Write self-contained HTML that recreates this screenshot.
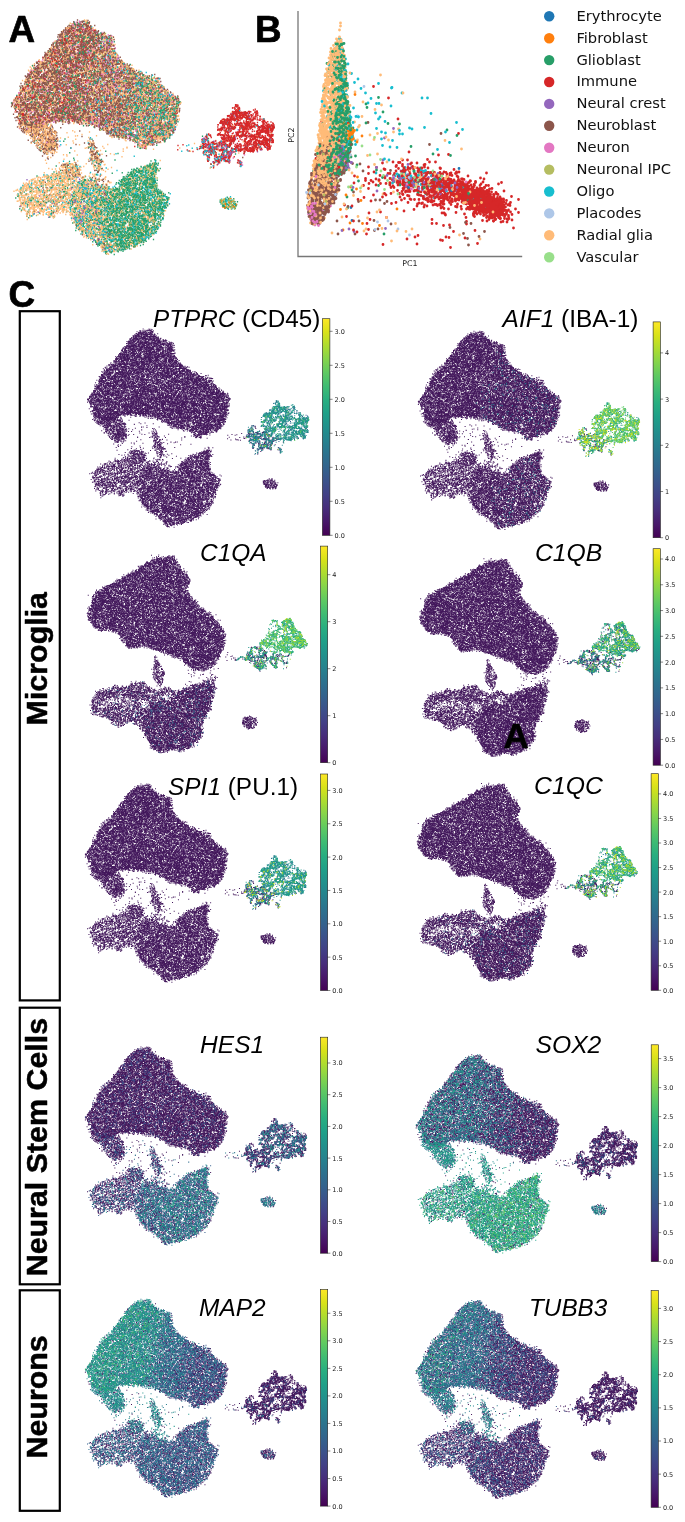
<!DOCTYPE html>
<html><head><meta charset="utf-8"><title>Figure</title>
<style>html,body{margin:0;padding:0;background:#fff}svg{display:block}</style></head>
<body>
<svg width="685" height="1522" viewBox="0 0 685 1522">
<defs>
<linearGradient id="vg" x1="0" y1="0" x2="0" y2="1"><stop offset="0" stop-color="#fde725"/><stop offset="0.0625" stop-color="#d8e219"/><stop offset="0.125" stop-color="#addc30"/><stop offset="0.1875" stop-color="#84d44b"/><stop offset="0.25" stop-color="#5ec962"/><stop offset="0.3125" stop-color="#3fbc73"/><stop offset="0.375" stop-color="#28ae80"/><stop offset="0.4375" stop-color="#1fa088"/><stop offset="0.5" stop-color="#21918c"/><stop offset="0.5625" stop-color="#26828e"/><stop offset="0.625" stop-color="#2c728e"/><stop offset="0.6875" stop-color="#33638d"/><stop offset="0.75" stop-color="#3b528b"/><stop offset="0.8125" stop-color="#424086"/><stop offset="0.875" stop-color="#472d7b"/><stop offset="0.9375" stop-color="#48186a"/><stop offset="1" stop-color="#440154"/></linearGradient>
<path id="g0_0" d="M286 107zm45 4zm-45 1zm-15 0zm-8 5zm-17 10zm2 2zm7-7zm7 9zm23-3zm12 8zm-2 3zm-11 2zm-18-2zm-3 4zm-2-6zm-6 3zm-13-3zm-9 2zm9 16zm4-6zm1-3zm4 5zm8 4zm9-3zm8-4zm11 5zm-14 11zm0-5zm-11 3zm-1-2zm-18 1zm-4 0zm-5-4zm-21 14zm17 2zm9 4zm18-3zm3 3zm1-5zm41-2zm-62 19zm-15 0zm-3-7zm-4 5zm-11-7zm-7 18zm6 3zm21 0zm4-7zm4 8zm3-2zm3-2zm9 1zm21-4zm-15 11zm-4 3zm-17 0zm-3-1zm-10-2zm-3 4zm-8-5zm-9 9zm-2-8zm-16 8zm-4 10zm4-4zm3 4zm11-2zm2 1zm1-7zm5 4zm2 4zm2-8zm2 5zm7-2zm1 2zm1 6zm2-2zm4-4zm1 2zm1-3zm2 5zm2 2zm3-8zm7-3zm7 10zm0 1zm1-2zm1-2zm2 3zm2-1zm2-4zm1 5zm6-5zm39 4zm-24 10zm-12-6zm-35 8zm0-6zm-1-3zm-1 9zm-10 2zm-5-10zm-4 5zm-4 0zm0 4zm-1-8zm-13-1zm-10 10zm-1-7zm-37 17zm13-1zm8 3zm3-3zm18-2zm9-2zm1 5zm3-4zm1 5zm4 1zm4-9zm6 0zm5 5zm12-4zm4 1zm10 1zm32 12zm-13 0zm-39 2zm-9-3zm-15-2zm-2 0zm0 9zm-2-9zm-1 4zm-19-4zm-2 5zm-17-1zm-22 3zm-2 12zm11-7zm8 8zm0-10zm7 6zm2 3zm5-5zm2-2zm0-2zm4 10zm8-10zm0 5zm2-5zm4 4zm17 1zm5 1zm3 3zm6-3zm4 0zm2 5zm19-3zm11 2zm34 6zm-4 3zm-32 0zm-19 3zm-5-6zm-14 4zm-4-7zm-4 10zm-6-5zm-4-1zm-2-2zm-18 4zm0-5zm-13 0zm0 0zm-14 2zm-1 0zm-9 3zm-2-2zm0-5zm-11 10zm-16 9zm7 0zm1 2zm5-7zm2 1zm8 3zm4-3zm9 1zm4 2zm4 4zm6-8zm11 8zm13 0zm8-2zm10-5zm3 7zm4-6zm6 2zm16-6zm2 5zm11-4zm14 19zm-22-3zm-7 6zm-1-10zm-6 8zm-4-4zm-13 5zm-5-4zm-23-3zm-2 3zm-3 3zm-3-3zm-4-3zm-7 7zm-5-10zm-5 5zm-10-2zm-2 5zm-7 2zm-1 1zm-7-3zm-3 3zm-5-8zm-1-3zm-11 18zm11-6zm3 10zm11-9zm3 9zm26-7zm2 3zm5-6zm16 7zm21 1zm1-3zm7 2zm29 8zm-1 2zm-2 2zm-3-7zm-3 0zm-1 7zm-10-3zm-2-2zm-6 1zm-1-1zm-15 9zm-5-10zm-3 3zm-10 4zm-19-1zm-2 0zm-1 4zm-11-5zm-2 2zm-4 2zm-7 1zm-7 0zm0-11zm-1 11zm-1-8zm-5 5zm-13-2zm7 9zm1-2zm1 4zm10 6zm3-9zm5 6zm11-6zm4 1zm1-1zm1 0zm6 9zm1-11zm1 5zm13 2zm0-5zm6 7zm7 1zm2-5zm4-2zm20 8zm0-6zm5 0zm10 0zm8 4zm8-9zm27 17zm-27 4zm-10-2zm-4-2zm-4-2zm-12-2zm-14 10zm-13-1zm-2 1zm-4-11zm-1 11zm-6-8zm-3 8zm-2-7zm-17-1zm-8-3zm-5 9zm-5 2zm-2-1zm-4-9zm-8 6zm-1-7zm-16 11zm-6-5zm-10 7zm6 3zm19 7zm3-11zm4 4zm17 3zm0-6zm1 0zm7 2zm7-2zm0 9zm6-4zm5-6zm12 8zm6 1zm0 1zm3-9zm1 0zm7 3zm5 7zm1-9zm4 1zm1 2zm6 5zm13-5zm5-3zm2 3zm4-4zm23 10zm2 4zm-31 1zm-3 5zm-24 1zm-2-8zm-3 9zm-6-11zm-3 3zm-1 5zm-8-1zm-7 4zm-11-4zm-4-5zm-1 3zm-6-4zm-2 1zm0 2zm-4 0zm-5-2zm-1 5zm-1-4zm-8 6zm-3-9zm0 6zm-5 0zm-21 4zm-11-4zm-2 3zm0 2zm-1-11zm-1 2zm-8 12zm3 6zm5-1zm6-3zm6 2zm12-4zm8 7zm9-6zm5-3zm1 0zm7 1zm11 2zm6 0zm11 2zm4 6zm1-6zm0 3zm1 3zm2-5zm10-3zm3 5zm5 3zm3-3zm6-7zm3 1zm4 6zm5-6zm49 4zm23 0zm-54 16zm-19-1zm-17-9zm-7 7zm-4-7zm-29 3zm-2 1zm-3 2zm-12 5zm-1-7zm-3 7zm-7-6zm-13-1zm-11 5zm-7-6zm-2-3zm-13 0zm-1 3zm-1-3zm0 10zm-7-7zm-9 3zm-6 12zm14 3zm5-9zm1 1zm20 5zm6 1zm1-6zm2 9zm1-9zm10 9zm18-10zm4 10zm0-10zm6 9zm5-5zm6 2zm1-3zm4-3zm1 4zm5-3zm13 3zm26 6zm28-9zm13 4zm14 3zm-34 13zm-16-7zm-18 3zm-7-4zm-2 5zm-7-6zm-2 3zm-1 1zm-2 5zm-1-4zm-1 3zm-4-4zm0-2zm-27-1zm-2 1zm-1 2zm-3 5zm-6-7zm-8 0zm-3 7zm-2-3zm-2 4zm0-4zm-2-1zm-1 3zm-3-7zm-2 0zm-30-1zm-7 6zm-13 0zm44 15zm5-6zm1-3zm15 6zm3 0zm2 5zm1-8zm2 6zm3-6zm2 8zm3-10zm1 4zm11 1zm6 5zm4-2zm7-4zm1 4zm5-6zm2 7zm6-10zm5 10zm3-5zm6 0zm7 6zm1-1zm14-3zm20 3zm1-6zm-36 8zm-16 10zm-1-10zm-29 1zm-7 8zm0-5zm-12 1zm-5 5zm-29 1zm0-2zm-6-2zm-8-7zm-8 3zm13 14zm3 3zm1-3zm2 0zm19-3zm3 3zm3-5zm2 3zm1 0zm1 7zm13 1zm2-8zm1 2zm3-3zm4-2zm0 7zm2 0zm10-7zm2 9zm3-7zm1 0zm0 5zm3-2zm3 5zm32-1zm13 13zm-4-8zm-22 3zm-4 1zm-3 2zm-6-6zm-1 2zm-9 5zm-1-7zm-2 5zm-3-1zm-2 5zm-17-8zm-1 7zm-14-3zm-5-7zm-3 6zm-1-1zm-8 4zm-4-7zm-1 1zm0 0zm0 1zm-2 3zm-2 3zm-1-7zm-7-1zm-27 1zm4 11zm14-2zm4 4zm4-3zm1 2zm10 4zm0 2zm3-8zm3 2zm5 1zm5 6zm1 1zm6 0zm1-1zm10-1zm0-7zm18-2zm6 0zm2 5zm1 1zm13 4zm1-9zm8 1zm5 9zm9-9zm26-1zm2 6zm-59 7zm-15-2zm-2 5zm-3-5zm-10 8zm-6-4zm-4 0zm-10-3zm-15 0zm-5 4zm-2 0zm-3-4zm24 12zm0 0zm15 3zm-14 9z"/>
<path id="g0_1" d="M289 103zm7 3zm-11 5zm-8 7zm-13-4zm-13 11zm20 4zm5-6zm4 7zm5 12zm-37-2zm-1-3zm-6 0zm-2 7zm8 0zm7 7zm12 1zm2 3zm10-3zm14 9zm-15-3zm-17 5zm-13 0zm-13 4zm-13-3zm-4 6zm22 2zm8 6zm62-1zm0 9zm-41 0zm-8 0zm-4 5zm-12-3zm-2 3zm-21-2zm-9-8zm-6 7zm-2 6zm5 5zm11-6zm4 6zm7 3zm12-3zm4-2zm7-1zm5 7zm3-11zm4 9zm-18 9zm-17 0zm-1-4zm-3 2zm-10 7zm-1-5zm-14 3zm-1 2zm0 0zm-2 0zm-7-4zm-3-1zm-5 13zm1 0zm3-3zm4-2zm4 5zm11-2zm8-4zm2-1zm1 4zm2-3zm3 7zm1 0zm3-6zm43 1zm1-2zm19 15zm-22-2zm-12 6zm-4-7zm-18 9zm-38 0zm-6-1zm-11-4zm-7 0zm-10 13zm6 4zm4-1zm5-9zm1 7zm5 3zm10-4zm0-1zm8-3zm0-1zm6 6zm8-6zm6 10zm1 0zm1-8zm0 3zm9-4zm3-1zm41 17zm-13 0zm-8-5zm-1-1zm-16 11zm-10-1zm-7-2zm-27-3zm0 1zm-3 5zm-3-5zm-12-2zm0-3zm-4 3zm-7-3zm-1 3zm-5-2zm-21 1zm-6 9zm6 4zm13-2zm7 3zm4 2zm6 3zm2-5zm0 0zm21 2zm4-4zm17-2zm6 7zm24-6zm34 8zm-21 8zm-18-2zm-6-3zm-12 0zm-7 9zm-16-8zm-6 7zm-1 0zm-19 2zm-3-11zm-9 3zm-17 3zm-3-2zm-1-4zm-3 0zm-18 8zm-2-3zm19 18zm2-10zm5 6zm2 1zm4 2zm6 1zm0-11zm12 0zm13 9zm12-5zm10-1zm2 4zm9-1zm15 3zm1 1zm2-2zm1 0zm10-4zm12 1zm1-3zm-8 21zm-18-5zm-1-5zm-4 5zm-5-3zm-5 3zm-10-3zm-7 1zm-5-3zm-4 3zm-5-3zm-7 4zm-10 1zm-3 5zm-9-4zm-5-3zm-21-1zm-3 8zm-4-9zm-28 20zm12-4zm2 3zm4-7zm5 3zm4-2zm14-1zm3 7zm11 2zm1-1zm3-1zm1 1zm1-9zm3-1zm2 2zm3-2zm3 3zm1 0zm2 3zm2-3zm1 0zm5 6zm16-6zm3 3zm42 2zm6-5zm-25 16zm-1 4zm-9-11zm-4 8zm-1-1zm-15-5zm-4 4zm0-1zm-2 0zm-6-4zm-35 8zm-16-1zm-8 1zm-2-5zm-3-3zm-1 1zm-6-1zm-4 1zm-2 18zm0 2zm8-2zm2 1zm7-7zm8 4zm2-3zm1 0zm3-3zm10 4zm11-2zm17-1zm15 3zm1 3zm9-1zm8 5zm3-4zm19 0zm3 0zm2 4zm39-3zm-27 9zm-13 6zm-3-10zm-1 2zm-9-1zm-7 2zm-16 0zm-12 0zm-2 7zm-4-9zm-3-2zm-12 4zm-2 1zm-5-5zm-2 0zm0 6zm-13-4zm-10-1zm-5 9zm-15-5zm-1 6zm-4-3zm0-7zm-3 4zm-4 1zm0-3zm-4 19zm7-6zm6 3zm2-1zm6-3zm3 7zm2-7zm6 1zm1-4zm2 6zm45 2zm3-5zm29-3zm15 21zm-28-2zm-2-3zm0 2zm-8 0zm-9 1zm-12 3zm-5-8zm-3 0zm-1 7zm0-3zm-3-3zm0-1zm-2 6zm-7-4zm-17 5zm-1-1zm-1-2zm0 0zm-1-4zm-19 7zm-1-4zm-18 0zm-2 2zm-8 12zm1-2zm28-3zm3 7zm3-1zm5 1zm0-4zm19 2zm3 3zm6-9zm5 2zm4-1zm1 3zm1-1zm0-4zm6 1zm3 9zm11-7zm5 7zm5-3zm16-4zm3 8zm11-5zm1-3zm54 3zm-19 9zm-10-2zm-21 1zm-5 0zm-9-2zm-2 6zm-25-1zm-11 4zm-12 0zm-1-6zm-4 3zm-16-5zm-4 7zm-8-6zm-5 3zm-9-5zm-23 8zm-12 2zm-3-7zm-3 4zm-11 10zm23-3zm9 7zm3 0zm13-7zm3 9zm6-3zm5 2zm12-5zm9 4zm3-1zm1-5zm5 8zm5 0zm1 0zm2-9zm14 2zm1 1zm13-1zm0-4zm7 3zm0 8zm10-9zm12-1zm3 9zm10-2zm5-6zm4 6zm18-5zm-39 10zm-1 8zm-2-8zm-5 6zm-2-3zm-29 4zm-9-4zm-2 4zm-6 2zm-7-8zm-5 0zm-20 4zm-24-5zm-6 2zm-9-3zm0 9zm-2-3zm-2 5zm-3-4zm-3 3zm8 5zm5 3zm1-6zm15 8zm7-3zm2 5zm3-2zm10-8zm5 7zm8-5zm11 9zm1-1zm16-4zm2 5zm3-11zm6 7zm0-3zm9 0zm7 3zm3-5zm8 9zm5-2zm-9 13zm-1-8zm-13 2zm0-1zm-4 7zm-2-3zm-11 3zm-1-10zm-2 5zm-39 3zm-7 3zm-5-9zm-6 4zm-9 1zm-2-7zm-5 3zm-1 6zm-2-2zm-13 15zm1 1zm9-10zm8 3zm2 4zm11 0zm3-6zm2 7zm9-2zm12-5zm11 3zm8 0zm2 6zm0-8zm15 6zm4 0zm12-9zm15 2zm21 5zm-28 6zm-2 3zm-15 6zm-25-1zm-6 1zm-6-9zm-4 9zm-15-5zm-6-5zm-10 3zm-2 0zm-10 6zm-7 7zm5 3zm6 1zm9-3zm17 5zm1 0zm17-6zm7 7zm1-2zm6-5zm0-3zm6 8zm4-5zm3 4zm0 0zm5 2zm15 0zm3-4zm6 5zm3-2zm11-5zm23-2zm-53 10zm-14 7zm0 4zm-3-6zm-7-1zm-6-1zm-3 8zm-1-10zm-2 5zm-5 0zm-11-3zm-2 8zm-5-11zm-3 5zm-2 0zm-17 0zm16 7zm21 0zm3 1zm2 2zm9 6zm3-9zm6 10zm0 3z"/>
<path id="g0_2" d="M295 87zm3 11zm5 0zm-8 16zm-6-3zm-1 2zm-3 4zm-22 2zm-1-7zm2 10zm3 9zm3-6zm12-1zm14 7zm15-8zm-23 12zm-12-3zm-4 1zm-7 3zm-24 5zm-4 7zm4-1zm7-2zm1 3zm29 1zm47 1zm-20 13zm-42-5zm-15 7zm-12-4zm0-1zm-23 17zm12-9zm0 8zm1-8zm0 5zm0 4zm13-6zm11-1zm10 5zm12-5zm19 4zm31-6zm-63 13zm-10 3zm-17 1zm-1-3zm-4 9zm-13-1zm-1-5zm-20 18zm9-5zm1 3zm8-5zm1 4zm3-1zm22 2zm26 3zm-4 1zm-22 2zm-1 1zm-1 3zm-55-1zm-1 11zm0 6zm3-8zm0 2zm21 1zm2-2zm14 3zm5 2zm3 0zm13-6zm3 0zm9 5zm15-8zm9 5zm29 15zm-44 2zm-31-2zm-7-8zm-4 7zm0 0zm-5-6zm-2 0zm-13 5zm-16-2zm-11-1zm9 10zm19 5zm9-5zm21 9zm1 0zm3-3zm21-4zm19 9zm-20 3zm-4-1zm-9 2zm-32 6zm-21-10zm-5 2zm-4 0zm-4 1zm-1 0zm0 4zm-3-7zm-19 2zm-5-1zm-5 20zm5 2zm3-3zm2-3zm8 6zm10-9zm6 0zm12 1zm2 7zm4 1zm9-7zm15 7zm64-4zm-61 16zm0-5zm-3 4zm-8-5zm-2-5zm-6 10zm-3-2zm-6-1zm-28 4zm-9 0zm-8 0zm-4-11zm-2 0zm-2 1zm-23 22zm8-1zm20-8zm6 6zm5 1zm11 2zm7-1zm2 0zm1 0zm0-4zm8 0zm4-6zm3 2zm1 2zm14 2zm8-5zm1 4zm2-4zm5 4zm5-2zm11-3zm-3 23zm-47-11zm-6 6zm-2-2zm-2 0zm-5 0zm-8 1zm-4 2zm-7-5zm-6 3zm-2 3zm-5-5zm-12 5zm-12-5zm-1 3zm-5-6zm-9 6zm41 9zm2 0zm5-2zm4 1zm18 0zm5 4zm8 4zm8-8zm8 8zm8 0zm9-7zm9 1zm17 3zm-19 7zm-1 7zm-17-7zm-8-1zm-6 1zm-39 8zm-5 1zm-10 0zm-28-11zm-6 6zm-5-2zm-13 15zm10-7zm6 11zm27-8zm24 6zm1-3zm3-2zm13 2zm7-6zm2 3zm8 2zm18 2zm17 2zm4 2zm13-9zm-6 16zm-5 2zm-5-8zm-6 0zm-7 6zm-29 3zm-7-4zm-3 4zm0-9zm-35 9zm-5-4zm-9-4zm-26 10zm0 1zm26 3zm18 5zm6 1zm19-8zm1-1zm11 10zm6-7zm21-2zm1 10zm15 0zm6-1zm6-2zm-19 13zm-16-4zm-4 4zm-23-3zm-5 5zm-5-3zm-5-4zm-11-4zm-5 8zm-39 3zm0-5zm-18-2zm-3 2zm-19 15zm21 1zm20-5zm12-3zm5 5zm5-2zm35-3zm3 1zm16 5zm1 1zm12-4zm94 11zm-76 1zm-8 0zm-5 3zm-13 1zm-5 1zm-7-10zm-4 8zm-19-4zm-33-2zm0 1zm-5 6zm-2 0zm-14-7zm-28 9zm-17 8zm1-2zm39 2zm0-4zm3 0zm2 8zm2-8zm1 3zm0-1zm13 5zm1 1zm0-3zm13 1zm10-1zm3-7zm4 7zm1 2zm6-9zm10 10zm13-5zm7-3zm2 3zm14-4zm24 9zm2-10zm-24 13zm-15 2zm0 7zm-5-10zm-2 2zm-1 6zm-12-4zm-5 4zm-3 2zm-14 0zm-4 0zm-1-3zm-3 3zm-6-11zm-11 10zm-5 0zm0-7zm-1 3zm-6-5zm-2 9zm0-8zm-14-1zm-28 2zm-10-2zm11 13zm19 8zm9 1zm4-4zm3 0zm9 2zm3-4zm5-5zm9 9zm15-8zm1 7zm8 3zm4-6zm17 0zm57 5zm11 4zm-3 2zm-44 7zm-15-3zm-18 1zm-4-5zm-4 0zm-4 4zm-34-5zm-2 6zm-24-5zm-4 5zm-3 2zm-21 2zm31 1zm14 4zm32 0zm4 0zm2-5zm0 6zm12-5zm3 4zm15 2zm9-8zm15 5zm20-3zm6 9zm-20 2zm-17 4zm-17 6zm-18 0zm-5-8zm-13-2zm-3 8zm-2-7zm-28-1zm-1-1zm-3 0zm-10 6zm4 14zm14 0zm7-8zm22 11zm12-5zm2-3zm7 0zm1 0zm19 6zm5-4zm14 3zm11-1zm31-4zm-41 19zm-25 0zm-7-8zm-2 4zm-10 1zm-14-3zm-5-4zm-8 10zm-11-8zm0 2zm-19-4zm-5 1zm53 14zm14-3zm17 1z"/>
<path id="g0_3" d="M307 102zm-31 11zm-2 4zm-18 3zm0 2zm14 2zm3 3zm4 0zm4-3zm2 5zm-34 6zm-1 3zm-4 1zm-6 1zm-7 8zm60-3zm5 4zm-9 10zm-12 8zm-11-4zm-7-7zm-2 7zm-6 0zm-1-6zm-35 18zm21-3zm11-3zm6 9zm13-3zm2-4zm10 2zm-2 12zm-22-5zm-13 1zm-9 10zm-6-7zm-1-4zm-16 0zm-9 15zm4 7zm14 0zm3-2zm2-1zm8 4zm4-6zm49 2zm-27 13zm-37 1zm-9 0zm0-5zm-1 3zm-15-2zm-12 9zm2 5zm2-5zm5 3zm1-4zm9 8zm6-9zm68 16zm-13-3zm-4 8zm-10-2zm-40-7zm-17 5zm-6 9zm1 9zm6-8zm2 2zm9 3zm0 2zm26-4zm16-6zm2 1zm20 3zm-32 12zm-11 6zm-42-7zm-7-2zm-2 4zm-5 1zm-12 1zm-13 15zm9 0zm2-1zm2-2zm10-1zm8 1zm7 3zm3-6zm31 1zm15-2zm12 16zm-7 4zm-2-5zm-7 3zm-21-3zm0 3zm-6 0zm-3-7zm-36 7zm-4 2zm-3-2zm-4-3zm-13 4zm-10-1zm4 7zm5 7zm12-6zm7-4zm0 8zm22 0zm32 0zm11 0zm21 0zm2 5zm-29 4zm-2 1zm-4 0zm-5 4zm-4-2zm-11-2zm-8-5zm-4 4zm-2 4zm-31-5zm-21 2zm-10-2zm-4 4zm-5-5zm8 13zm5-2zm2-2zm19 8zm3 2zm2-3zm1-7zm36 2zm1 4zm17 3zm34-9zm12 7zm6-8zm0 3zm-48 11zm-5 2zm-6 5zm-5-2zm-4 4zm-5-2zm0-4zm-38-5zm-8 4zm-12-3zm-5 0zm-31 20zm10 0zm0 1zm24-6zm24-1zm4 4zm2 4zm5-8zm6 7zm4-9zm9-1zm19 3zm43 11zm-21 9zm0-1zm-6-10zm-2 1zm-6 1zm-17 0zm-1 0zm-2 9zm-23-2zm0-1zm-21-1zm-2 2zm-1 0zm0-8zm-34 3zm-3 2zm-8-3zm0 18zm7-6zm2-2zm22 8zm7-2zm23 4zm6 0zm4-8zm6 5zm2-8zm6 9zm30 0zm1-2zm12-6zm12 2zm-9 19zm-25-6zm-25 2zm-23-6zm-1 7zm-1 4zm-26-9zm-11-2zm-24 9zm-8 13zm14-6zm6 4zm9-3zm3 3zm11 3zm13-2zm5 1zm3 0zm5-5zm3-2zm1 0zm18 8zm4-1zm0-1zm7-8zm6 1zm26 9zm10-3zm12 7zm-21 6zm-1-8zm-15-1zm-1 8zm-5 3zm-18-10zm-23 1zm-3-2zm-10 3zm-14-1zm-13 1zm-14 4zm-5 4zm0-5zm-17 3zm-6-5zm-11 16zm21 0zm26-4zm2-3zm6 10zm14-5zm2 2zm12 1zm8-9zm15 4zm1-2zm1 7zm15-7zm15 5zm6-6zm2 0zm16 1zm-22 16zm-10 4zm-22-8zm-14-1zm-1 9zm0-8zm-5-1zm-11 4zm-5 6zm-37-11zm-1 6zm0 3zm-8-9zm0 17zm11 5zm30 1zm2-11zm2 6zm12-6zm9 2zm3 9zm7-1zm26-4zm2-5zm3 1zm7 3zm22 4zm7-2zm5 10zm-47-3zm-8 2zm-44 5zm-27-8zm-31 2zm3 20zm14-11zm17 3zm1 3zm0-6zm4 0zm32 6zm3-5zm15 6zm1-5zm77 2zm-42 10zm-5 8zm-31-9zm-23 2zm-5 5zm-20-6zm-3 9zm-3-3zm-2-6zm-5 3zm-24-2zm26 9zm5 11zm22-5zm22-4zm9 1zm29-3zm15 6zm-32 8zm-9 0zm-29-2zm-1 5zm-7 1zm-6 2zm-12 7zm25-3zm11 0zm3 6zm20-5z"/>
<path id="g0_4" d="M324 93zm-19-4zm-8 13zm25 4zm-29 9zm-5-2zm-9 0zm-28 18zm20-7zm6-4zm39 18zm-7 1zm-18 3zm-31-9zm-12 10zm-4-4zm-2 16zm4-8zm82-1zm-11 21zm-60-5zm-3-6zm-23 10zm-14 3zm80-1zm3 23zm-17-8zm-10-1zm-7 8zm-25-10zm-31 21zm16-9zm3 0zm49 2zm-32 19zm-7-2zm-2 4zm-2 0zm-1-11zm-12 1zm0 11zm11 5zm8 4zm32 2zm32-11zm-40 20zm-26-1zm-27-6zm-18 0zm-1 1zm-20 2zm4 9zm4 10zm23-4zm7-4zm20-2zm18 10zm13-7zm8-4zm4 1zm-18 11zm-13 9zm-15-6zm-11 2zm-2-1zm-10 4zm-2-8zm-33 6zm-5-4zm-27 21zm5-6zm33 0zm38 2zm20-2zm21 16zm-2-4zm-5-5zm-28 0zm-25 1zm-8 10zm-6-1zm-28 0zm-17-3zm-12-3zm12 18zm14-8zm6-2zm20 5zm5 1zm8-5zm3 3zm11 0zm32-1zm25 12zm-36 7zm-24-6zm-5 1zm-16 4zm-20-3zm-28 2zm-4 3zm-15-11zm-1 9zm0 11zm14 2zm9-2zm11-5zm9 3zm15-5zm14-1zm3 10zm4-1zm4-7zm14 4zm33-3zm-25 10zm0 10zm-10-11zm-13 5zm-12-4zm-3 6zm-10-4zm-1 8zm-5-6zm-17 4zm-35-3zm-6 6zm37 6zm1 4zm6-2zm9 3zm19-1zm7-3zm10 2zm16-3zm11-3zm0 5zm13-2zm-68 15zm-5-6zm-2 0zm-6 3zm-12 4zm-13-2zm-8-2zm-7 0zm-2-6zm-11 1zm-1-1zm0 1zm-2 7zm-4-7zm-14 22zm26-7zm2-4zm1 4zm12 3zm21 1zm1 1zm8 1zm15-1zm7-2zm7 0zm22-1zm15 13zm-19-2zm-10 0zm-6 0zm-12 0zm-31 1zm-6 4zm-2-6zm-11 1zm-2 5zm-19-7zm-3 0zm-11-1zm-8-2zm3 12zm18 5zm5 6zm50-9zm9 6zm4 2zm2-3zm3-4zm-8 9zm-2 2zm-11 6zm-42-8zm-7 10zm-21-10zm-22 4zm-7 10zm8-2zm1 10zm3-3zm15-3zm3-4zm1 1zm8 10zm13-1zm19-9zm8 0zm8-1zm1 9zm9 1zm7-9zm5 2zm1 6zm7 2zm34-5zm54 8zm-55 2zm-37-1zm-4 1zm-10 2zm-1-2zm-6-3zm-38 0zm0 9zm-5-9zm-28 6zm-8 13zm4-6zm0 0zm12 9zm12-7zm15 3zm30 0zm5-4zm6 1zm31 18zm-4-6zm-12 3zm-8-1zm-17-4zm-8 2zm-3-3zm-9 8zm-26-9zm-7 10zm-18-6zm-5 0zm19 17zm3-8zm14 1zm21 2zm7-1zm18 0zm2 0zm0 2zm5 1zm24-4zm0 3zm22-4zm3 8zm-23 10zm-20-1zm-18-5zm-2 2zm-3 3zm-20-1zm-1 2zm-13 4zm-11-10zm-1 9zm4 4zm19 3zm26 1zm1 2zm18-6zm20-1zm5 3zm2 6zm8-9zm11 9zm17-6zm-38 12zm-23 3zm-3-4zm-6 3zm-9 3zm-7-4zm-26 5zm32 11zm8-7zm26-1z"/>
<path id="g0_5" d="M281 93zm7 10zm12-3zm8 7zm17 6zm-48-3zm-2 2zm-21 22zm-1 4zm9 25zm-8-5zm-20-1zm39 21zm4-4zm6-2zm14 1zm-52 13zm-16-2zm-30 16zm2-4zm3 5zm13-9zm7 5zm1 2zm17-1zm40 7zm-15 2zm-58 2zm-10 0zm-16 17zm43-8zm4 4zm49 13zm-14 1zm-28-8zm-3 5zm-7-2zm-3-3zm-67 11zm5 9zm34-2zm5-2zm3 7zm5-4zm7 1zm6-3zm1 0zm28-1zm0 12zm-44 6zm-17-10zm0 4zm-12 5zm-4-8zm-44 8zm29 3zm20 3zm1 5zm9 2zm0-5zm38 5zm-15 7zm-29 4zm-18-1zm-33 10zm8 3zm60-2zm2-1zm22 0zm16 5zm4-11zm-1 21zm-13-6zm-10 0zm-21 2zm-6 5zm-68-2zm-16 14zm7-4zm15-2zm17-1zm21 5zm13 2zm29-4zm3-1zm9 0zm7 8zm-18 7zm-2-1zm-15-7zm-7 10zm-19-9zm-18-1zm-27 9zm-19 9zm3 5zm4-4zm2-3zm8 4zm14-6zm3-2zm1 7zm6-2zm6-3zm34 2zm19 5zm1-5zm7 6zm29-1zm19 7zm-6 2zm-9-2zm-47-3zm-28 7zm-2-2zm-27-6zm-1 0zm-4 1zm-8 7zm-2 3zm-6-9zm-16 2zm-22 0zm-1 7zm-1 5zm12 6zm15-4zm32-4zm4 6zm18-3zm20-3zm11 13zm-25 7zm-13 1zm-10-3zm-1-7zm-1 8zm-20-5zm-51 11zm5 3zm10 5zm8-8zm22-1zm5 1zm21 1zm11 2zm8 0zm17 0zm2-2zm12 4zm2-7zm15 16zm-7-4zm-18-1zm-3 0zm-20 3zm-44-1zm-44 3zm-10 12zm7-1zm31 5zm2-4zm17 5zm24-4zm40-4zm23 9zm12-4zm-52 12zm-1 0zm-21 2zm-2-2zm-8 1zm-78 5zm39 4zm53-3zm20 1zm4 4zm21 2zm17-3zm4 8zm-9 1zm-21 3zm-18 4zm-13 0zm-77-7zm-3 7zm-14-6zm29 10zm5 8zm1 1zm2-3zm11-2zm29 4zm2 1zm6-2zm1-2zm65 13zm-12 0zm-16-2zm-17 4zm-28-6zm-10-1zm-18 5zm-30 4zm39 6zm3-1zm17-4zm55 8zm-28 10zm-27-2zm-2 5zm-40 0zm40 11zm25-9z"/>
<path id="g0_6" d="M264 114zm3 11zm2-4zm17 1zm17-2zm-36 19zm-25 15zm26 6zm-19 3zm-23 7zm40 15zm-5-1zm-57 9zm15 10zm18-1zm14-9zm19 3zm8 9zm-65 8zm-2-6zm-21 13zm12 0zm8 0zm11-2zm16 2zm14 7zm19 0zm-62 6zm-12-1zm-9 0zm-4-2zm-6 8zm18 8zm7 4zm27-1zm9-6zm18 7zm33-5zm1-4zm-46 18zm-19 1zm-8 0zm-6-3zm-5 0zm-35 2zm-4 4zm-13-5zm-33 10zm5 5zm32-3zm27 0zm34-5zm6 2zm23 5zm24 10zm-23-6zm-37 10zm-4-5zm-40-1zm-16 3zm-5 1zm-5-5zm-10 8zm-6-9zm-8 21zm28-4zm9-3zm39 1zm4 1zm44 1zm1 13zm-79-1zm-19 2zm-4 1zm-14-4zm-5 17zm9-6zm28 3zm6-1zm42-6zm39 22zm-41-9zm-6 9zm-6-9zm-8 6zm-7-8zm-2 3zm-53 1zm-7-3zm-8 3zm-5 3zm55 7zm28 7zm28-4zm23 5zm-20 8zm-33 0zm-15 0zm-1-5zm-21 4zm-16 5zm-36-5zm-7 6zm16 1zm5 9zm3-1zm1 2zm16 1zm2-1zm4-1zm82 0zm16-2zm-17 12zm-7-7zm-12 6zm-7 3zm-15-8zm-34 9zm0-9zm-14 1zm-19 1zm-46 17zm4-1zm1 2zm11-3zm2-2zm3-1zm0 4zm27-5zm42 4zm9 5zm49-2zm-4 7zm-75 4zm-3-2zm-7-1zm-19 2zm-6-7zm-5 6zm-5 2zm-8 2zm-10-6zm-12-2zm-1 11zm32 4zm65-3zm45 7zm19-5zm-3 10zm-70 6zm-1-5zm-17 0zm-8 1zm-22 1zm-4 0zm-35-4zm0 5zm10 8zm6 2zm5 1zm48 3zm9-1zm4 2zm77 11zm-50-2zm-10 4zm-12-2zm-13-7zm-44 2zm-1 2zm-11 16zm3-4zm3 4zm67-7zm5 4zm50 1zm-20 7zm0 4zm-12 5zm-21-3zm-17 3zm-28-6zm-21 2zm-1 5zm0 9zm23-5zm58 0zm25 2zm-33 10zm-13 3zm-7 0zm-1-3zm-2 1zm-16 6zm13 12zm18-1zm14-6z"/>
<path id="g0_7" d="M318 85zm-51 30zm-3 15zm-2 7zm-21 14zm37-3zm21 0zm18 3zm-58 8zm-10 7zm-1-4zm-10-3zm-9 3zm-6 15zm6-6zm61 3zm14-1zm-12 7zm-52 11zm-8-3zm-6 3zm-20 3zm7 8zm7-5zm17 5zm27-1zm5-2zm-8 6zm-58 4zm19 16zm13-6zm-64 20zm-4 7zm34-6zm43 7zm-9 9zm-2 2zm-34-1zm-42 5zm-3 0zm-17 7zm6 2zm12 0zm23-1zm2 5zm15-4zm13-1zm3 14zm-48 3zm-31-6zm-14 14zm25-5zm11 8zm2-2zm24-4zm17 5zm3-8zm30 3zm12 4zm18 15zm-24-2zm-3-4zm-31-4zm-32-1zm-56 14zm44 3zm33-5zm18 6zm5 3zm10-4zm41-4zm-99 22zm-41-4zm-6-2zm29 11zm2-2zm27-2zm3 10zm1 1zm41-11zm24 20zm-15 2zm-13-4zm-26-6zm-15 4zm-8-4zm-8 0zm-29 8zm-31 3zm54 9zm5-2zm7-3zm24 2zm1-2zm32 18zm-42-2zm-106-6zm-4 10zm18 6zm1-5zm4 4zm24-3zm10 4zm5 5zm10-5zm21-1zm20 2zm5 3zm14-2zm8-5zm-99 16zm-1 3zm0-8zm-6 10zm-45-4zm24 7zm11 7zm29-6zm55 1zm-41 18zm-79 1zm30 4zm28 4zm2 4zm28 0zm14-1zm30-9zm-18 15zm0 2zm-60-6zm-18 6zm-17 2zm-4-2zm8 7zm64 5zm-17 10zm-14-4zm-1 9zm-15-4zm-28 8zm6 10zm11-4zm13-5zm25 4zm1-5zm21 5zm9-4zm5 0zm5 2zm6 13zm-10 2zm-34 2zm-32-9zm21 17zm30 3z"/>
<path id="g0_8" d="M344 96zm-24 18zm-10 5zm-30-5zm-6 5zm4 7zm30 12zm-50 17zm68 6zm-68-1zm-16 2zm42 10zm-70 14zm6 29zm-5-8zm-32 10zm23 3zm33 0zm-7 11zm-14 8zm-10-4zm-4-1zm-11-3zm-21-2zm-17 16zm55 1zm10-6zm6 5zm21 2zm-7 10zm-3 0zm-30 0zm-21 5zm-33 9zm-11 7zm-23 21zm2-10zm40 2zm23 1zm-20 19zm-33-2zm43 5zm5 0zm2 3zm34 18zm-57-11zm-19 8zm-7-4zm-16 3zm-6 13zm4 0zm21-1zm16 4zm10 0zm2 0zm40-4zm44 9zm-17 3zm-95-6zm-34 3zm-7 7zm-1-4zm-1 0zm145 27zm-47-9zm-68 9zm-38-8zm-17 13zm10 2zm53 2zm5-2zm2-5zm21 6zm10-4zm0 3zm17 0zm20 14zm-32 2zm-101 14zm21-6zm23 3zm49 0zm34-7zm3 8zm35-9zm-129 15zm-16-3zm-17 7zm-9-5zm-3 19zm31-3zm11-5zm9 7zm28-6zm56 16zm-45 3zm-60 2zm-4 0zm0 6zm3 0zm3 0zm19 6zm48-2zm3 0zm2 1zm10-9zm12 8zm-14 5zm-21 8zm-5-9zm-19-1zm-7 0zm-31 5zm-14 9zm3 6zm18-4zm18-4zm44 3zm-8 14zm-9-3z"/>
<path id="g0_9" d="M278 101zm24 4zm-15 34zm-34 12zm61-2zm-72 16zm19 11zm-39 7zm36 24zm-27 3zm-34 0zm-4-6zm3 22zm47-5zm0-5zm38 22zm-31-8zm-4 19zm8 12zm-42 0zm-39-9zm-13 9zm-1 11zm9-8zm15 4zm2-1zm14 5zm17-3zm-21 15zm-68 9zm18 4zm32-6zm35 9zm-66 9zm-25-4zm-10 9zm4-2zm12 1zm68 10zm10-6zm-28 14zm-1 1zm-2-3zm-7 5zm-12-7zm-25 1zm-26 0zm-2 1zm3 7zm42 1zm94 10zm-106 7zm-31-6zm-7 5zm-6 6zm-2 6zm99 3zm22 8zm-4 5zm-20-4zm-2 5zm-44-7zm-37 7zm-13-1zm-8-9zm5 16zm19 5zm58-8zm31 4zm-11 12zm-47 5zm-65 5zm5 0zm33 8zm40 0zm41-4zm-14 15zm-4-1zm-85 0zm-21-9zm-4 3zm-7 5zm98 9zm27-5zm-90 17zm-5 4zm-11 9zm6-5zm8 6zm81 2zm1 9zm-4 3zm-20-8zm-6 10zm-45 8zm11-6zm64 0zm-34 20zm-34 2zm-5-8zm34 13zm6 0z"/>
<path id="g0_10" d="M285 107zm-10 4zm-22 16zm10 27zm5 13zm-1-1zm-4-6zm-33 7zm-2-4zm26 6zm-23 12zm-2 33zm-8 1zm-18-7zm45 9zm28 22zm0-8zm-36-2zm-21 9zm-3-4zm-66 15zm72-4zm0 1zm2 2zm2 3zm23 9zm-72-2zm-27 5zm4 11zm86-9zm29 15zm-51 0zm-91 13zm77-5zm18 3zm2 13zm-38 4zm-8-4zm-39 0zm101 18zm-45 13zm-23-2zm-2-6zm-40-2zm-24 3zm-22 6zm64 3zm21 5zm46-3zm47 14zm-59 6zm-54-7zm-23 0zm-1 0zm-27 12zm20 7zm31-11zm19 9zm-47 9zm-21 4zm61 7zm-3 7zm-74 1zm0 5zm-22 15zm19 2zm28-4zm35 1zm42 13zm-43 2zm-16-9zm-63 4zm20 11zm109 1zm30 11zm-147 9zm21 2zm8 5zm45-1zm23-5zm3 18zm-110-8zm24 13zm10 5zm2 2zm43 1zm13-5zm-11 15zm-41-7zm-3 6z"/>
<path id="g0_11" d="M303 101zm-31 24zm-7 16zm31 9zm-6 9zm-26 2zm-15 1zm-17-3zm-12 13zm21-1zm-14 14zm0-4zm22 13zm12 9zm-61 3zm42 12zm1 7zm48 3zm-20 7zm-43 17zm-3 2zm-3 4zm-9 2zm-17-7zm-7 7zm-59 3zm6 9zm101-4zm-26 13zm-46 2zm-26 3zm15 9zm55 1zm28 2zm-50 8zm-2 3zm-65-3zm2 8zm37 1zm6-3zm29 9zm16 1zm-18 6zm-73 5zm-12 5zm4 2zm1 3zm7 0zm12 4zm28-11zm21 0zm6 2zm24 0zm-77 16zm-3-6zm-48 4zm23 19zm28-3zm20 2zm25-9zm14 10zm21 0zm-59 9zm-25-7zm-62 9zm80 4zm1 8zm26-10zm5 3zm12 7zm3-2zm17-5zm-24 18zm-39-9zm-7 4zm-14 7zm-7-10zm-10 0zm-64 15zm45 4zm10-2zm22-4zm24 2zm7 12zm-2 1zm-87 4zm-4 7zm46 6zm39-7zm19 7zm14-2zm2 8zm-4 6zm-24 0zm-46-8zm-27 19zm41 0zm11-6zm35 1zm31 1zm-56 11zm-60 3zm27 12zm24 2zm59 9zm-52-1zm-12 1zm-9 1zm-18-6zm11 13zm5 2zm35 0z"/>
<path id="g1_0" d="M348 88zm-12 7zm-3-9zm-3 3zm-6-2zm-4 7zm0-3zm-49 15zm9-2zm4 0zm5-8zm32 4zm6 2zm7 4zm9-6zm3 5zm7-9zm1 7zm8 4zm17-5zm-9 14zm-2-1zm-5 1zm-7-2zm-17 3zm-13-7zm-2 6zm-7-8zm-5 9zm0 0zm-20-8zm-4 0zm-11 22zm10-1zm5 0zm9-7zm0 4zm6-4zm1 1zm1-3zm19 9zm2-2zm6-1zm4-7zm1 9zm21 2zm2-4zm0 2zm9-9zm3 4zm6-2zm2 9zm0-7zm9 2zm16 13zm-1-5zm-19-2zm-1 4zm-4 0zm-1 5zm-4-5zm-2 7zm-4-11zm-4 7zm-2-2zm-1 5zm-12-8zm-5 4zm-12-2zm-3 2zm-5 5zm-4-2zm-9 2zm-18-4zm-13-6zm-14 6zm-3-1zm-16-6zm-5 4zm5 15zm19 3zm5-6zm12 3zm2 0zm12 0zm12 4zm11-6zm4-5zm0 11zm4-3zm2 2zm9-5zm11-5zm2 11zm7-6zm4 3zm0-3zm7-1zm1-4zm5 9zm18 0zm4 0zm6-5zm9 0zm2 7zm2-1zm17-3zm-11 11zm-1 2zm-1-4zm-23 7zm-7 0zm0-3zm-5-1zm-21-2zm-5-4zm-1 5zm-9 1zm-5-6zm-1-1zm-2 7zm-31-5zm-1 4zm-9 1zm-4 1zm0 2zm-1-3zm-5-7zm-1 9zm-5-7zm-18 1zm-9 4zm0-2zm0-2zm-3-2zm-10 4zm-2 4zm-3 3zm9 11zm2-5zm10-1zm3 3zm10-8zm6 8zm10 3zm5-4zm3-1zm17-6zm6 7zm6-5zm5 6zm2-4zm1-2zm10 7zm4-7zm0 2zm1 2zm4-5zm6 5zm1 1zm12-4zm9 8zm1-5zm3 4zm0-4zm12-5zm3 5zm9 0zm2 5zm21 3zm-14-2zm-10 6zm-14 5zm-9-11zm-2 2zm-6 0zm0 3zm0-2zm-9 2zm-19 2zm-9-5zm-1 5zm-3-7zm0 10zm-5-8zm-1 4zm-13-3zm-8-3zm-7 10zm-9-9zm0 1zm-3-2zm-7 10zm-24-3zm-2-5zm-6-1zm-2 10zm-10-7zm-28 9zm38 3zm2-4zm4 6zm8-5zm0 9zm0-3zm4 1zm15-8zm0 11zm3-4zm1-4zm3 8zm8-6zm12 3zm9-7zm2 5zm3-3zm4-1zm7 6zm4-8zm0 11zm3-4zm2-7zm1 3zm3 6zm9-6zm4 4zm6 0zm2-5zm7 0zm8 7zm15-7zm36 3zm3-1zm-32 8zm-4 7zm-10-2zm-1 0zm-9 1zm-2 2zm-3-7zm-1 9zm-7-4zm-13 2zm-16 1zm-1-6zm-6 0zm-3-3zm0 5zm-6 4zm-2 2zm-3-1zm0-3zm-7-7zm-1 4zm-2 7zm-1 0zm-14-7zm-7 4zm-5-4zm-2 1zm-4 5zm-3-6zm-10-2zm-7 0zm-7-1zm-9 8zm-5-9zm-3 2zm-7 4zm10 15zm16 0zm38-2zm6 3zm11-2zm2-4zm3-3zm1 0zm7 9zm14-1zm4-9zm2 4zm1 5zm21 1zm4-8zm2 3zm8 0zm19-5zm51 6zm-54 12zm-17-4zm0 2zm-6-4zm-3 3zm-5-1zm-5 6zm-2-6zm-8 1zm-8 8zm-2-9zm-1 4zm-6-4zm0 0zm-1-2zm-4 6zm-6-2zm0 1zm-7 6zm-9-1zm-5 1zm-5-6zm-2 6zm-15-5zm-3 2zm-25-6zm0 5zm-12-5zm-21 10zm6 1zm18-1zm20 7zm5 4zm3 0zm6-11zm1 4zm7 1zm6-3zm1 7zm12-7zm6-2zm2 3zm2-2zm4 9zm14-2zm5 2zm2-3zm0-6zm4 2zm7 7zm1-1zm2-2zm6-4zm5-1zm10 7zm6-1zm1-1zm1-3zm4 6zm5-8zm5 8zm14-8zm2 8zm2 1zm3-10zm-2 11zm-5 0zm-12 5zm-20-2zm-3 4zm-9-3zm-9 4zm-1-2zm-1 2zm-21-3zm-7-4zm-12 0zm-7 6zm-2-4zm-1 0zm-4 3zm-16-5zm-2 7zm-16-7zm-7-1zm-18 9zm-9-4zm-5 11zm4 0zm14-4zm18 1zm2 2zm16 2zm6 1zm4-1zm2-4zm3-1zm2 2zm2 7zm6-9zm1 5zm16 0zm1-1zm13 5zm5 1zm17-7zm2 3zm9 4zm17-6zm1 4zm8-6zm1 4zm8-4zm6-2zm19 3zm-27 18zm-21 0zm-17-1zm-8 3zm-7-2zm-1 1zm-11-4zm-11-4zm-3 3zm-11 2zm-2 0zm-2-4zm-7 3zm-12 2zm-5-7zm-4 7zm-8-7zm-5 6zm-24-6zm-4 4zm-12 0zm-13 10zm3 5zm17-8zm11 2zm7 3zm7 2zm0 3zm0-4zm3 0zm3-1zm1 4zm4-6zm2 7zm1-9zm45 5zm19-2zm6 4zm14 0zm7 1zm0-7zm6 3zm18 5zm7-10zm30 5zm-2 15zm-38-8zm-3 6zm-10-3zm-5-3zm-2 2zm-15 8zm-3 1zm-9-2zm-2-1zm-4-6zm-2-1zm-2 4zm-25-4zm-7 10zm-5-1zm-11-9zm0 7zm-13 1zm0-4zm-4 2zm-2 3zm-14 1zm-4-8zm-16 1zm-4 3zm4 16zm14-3zm1-1zm3 2zm2-4zm31-4zm1 7zm0-4zm7 2zm17-4zm1-1zm2 8zm10 0zm3-4zm12 5zm7-1zm11-4zm38 2zm-12 10zm-4-4zm-10 3zm-32 6zm-4 1zm-21-6zm-9-3zm-6 3zm-7-2zm-4 1zm-8-3zm0 10zm-10-8zm-1 3zm-11 1zm-26-1zm0 1zm-6 3zm-28-6zm11 15zm12-4zm13 3zm1 4zm1-9zm21 1zm9 1zm6-1zm1 5zm4 4zm1 0zm21-6zm5-1zm10 4zm5-2zm15-2zm1 2zm13 2zm3 0zm17-7zm4 0zm2 9zm34-10zm4 8zm-2 15zm-34-7zm-3-2zm-2 3zm-1-2zm0 2zm-5-5zm-13 0zm-5 1zm-7 3zm-7 0zm-2 0zm-5 1zm-2 1zm-3-4zm0 7zm-1-3zm0-4zm-20 1zm-8 5zm-10 2zm-3-3zm-1-2zm-1 1zm-13-5zm-3 3zm-7 2zm-2-6zm-2 4zm-12 6zm-3 0zm-18-4zm-9 5zm-13-11zm39 14zm23 0zm4 3zm9-5zm9 1zm10 10zm16-4zm1 1zm2-6zm6 9zm1-1zm7-6zm2 3zm3-6zm9 3zm2 5zm4-4zm1 4zm1 1zm3 1zm15 2zm-3 7zm-5-7zm-2 3zm-6 2zm-13-3zm-1 7zm-16-8zm-5 8zm-6-9zm-3-1zm-5 8zm-6-5zm-8 5zm-1 3zm-38-11zm-13 11zm-2-6zm-2-2zm6 15zm2 5zm6-7zm2 0zm7-1zm2-1zm0 3zm18 1zm6 3zm7 0zm3 2zm2-1zm4 0zm15-10zm8 0zm7 7zm6 1zm4 3zm1 0zm1-2zm5-9zm2 4zm16 5zm2-2zm9-3zm2 1zm-9 15zm-14-3zm-4 0zm-6 5zm-3-9zm-5 1zm-1 7zm-9-4zm0 1zm-12-1zm-1 5zm-3 1zm-3-5zm-6 5zm-1-11zm-1 5zm-7-1zm-4-3zm-10 7zm-6 3zm-1-7zm-17 4zm-2 1zm-4-7zm-6 5zm-1 0zm-9 3zm-12-10zm-5 4zm-1-3zm28 19zm27-8zm8 0zm4 9zm12 0zm15-6zm0 7zm52-1zm15-3zm12 10zm-24-4zm-14 5zm-9 6zm-36-11zm-9 11zm-1-8zm-5 2zm-5 1zm-2-5zm-4 0zm-8 7zm-1-6zm-2-1zm0 10zm0-11zm-12 5zm-17-3zm-16-1zm-1 2zm0 3zm-2-6zm-9 1zm-4 8zm-3 1zm0 8zm3-1zm17 0zm8-4zm9 3zm1-4zm4 11zm3-10zm6 6zm1 4zm0-11zm1 11zm9-8zm2-2zm6 6zm3-5zm17 2zm0-2zm1 8zm15 0zm5-8zm4 0zm7 0zm2-1zm3 6zm5-3zm1 3zm0 1zm3 1zm20 1zm35-5zm-24 18zm-9-1zm-2-5zm-4-1zm-4 4zm-3-2zm0-1zm-33 1zm-7 4zm-14-9zm-7 0zm-1 0zm-14 1zm-14 7zm-2-8zm-5 10zm-4-1zm-4-4zm-12-6zm-2 11zm-2-4zm0-4zm-3-3zm-28 0zm-15 9zm25 6zm1 6zm30-3zm2-3zm6 0zm1 4zm6 1zm14-1zm4 3zm3-1zm1-8zm1 0zm5 5zm7 3zm8-9zm2 0zm6 5zm2-3zm18-2zm16 10zm3-1zm18-3zm10-5zm5 1zm2 8zm9 10zm-22-6zm-4 0zm-25-1zm0 8zm-2 2zm-2-9zm-4 3zm-1 3zm-9 2zm-5-1zm-6-7zm-4-1zm-8 7zm-3-4zm-3 3zm-1-1zm-5 4zm-7-5zm-9 5zm-8 1zm-14-9zm-10 6zm-1-2zm-2 4zm-3-9zm-20 3zm-9 0zm-38 16zm14-6zm12 7zm21 0zm18-6zm52 5zm3-8zm11 1zm21 2zm2 3zm7-6zm2 10zm3-3zm2-1zm38-6zm2 8zm5-2zm-188 15zm-19 9zm6-2zm86 3z"/>
<path id="g1_1" d="M340 83zm14 10zm-8-6zm-3 1zm0 4zm-50 3zm-3 0zm-6 10zm5-7zm1 6zm8-7zm8 2zm7-3zm12 6zm2-6zm10 8zm3 2zm11-8zm1-1zm27 22zm-7-8zm-2 6zm-11-3zm-2 4zm-3-3zm-6 3zm-3-2zm-1 3zm-2-5zm-1 1zm-3 2zm-7-2zm-9-6zm-6 6zm-2 0zm-13 0zm-20 0zm-6-2zm-2 0zm-6-2zm1 15zm15 2zm8-2zm4-6zm10 8zm5 1zm6-6zm3-3zm0 6zm6-1zm0 2zm16-6zm4 7zm3-1zm2 2zm2 1zm6-8zm6 8zm9-9zm1 9zm45 9zm-2-2zm-5-2zm-13 5zm-19 0zm0-7zm-1 7zm0 3zm-11-3zm-2-6zm-3 8zm-20-1zm-18 0zm-2-9zm-3 8zm-2-6zm-5-2zm-3 1zm-6 10zm-9-2zm-6-9zm-3 7zm-11-3zm-10 0zm-8 15zm8-2zm32 2zm2-3zm1 0zm19 1zm2-5zm4 4zm1-4zm7 2zm4 3zm7 1zm4-6zm3 10zm0 0zm33-8zm4-1zm6 7zm8-5zm1 4zm11 9zm-19 7zm-7-8zm-2 7zm-1-8zm-3-2zm-31 2zm-3-1zm0 1zm-8 7zm-1-7zm-17 0zm-14 8zm-7-4zm-14-4zm-12 1zm-1-1zm-18 5zm-33 15zm30 1zm14-1zm3-4zm9-5zm5 10zm2 0zm4 0zm5-4zm1 0zm11-7zm10 4zm0 2zm1-5zm0 1zm1 6zm2-7zm2-1zm20 0zm0 6zm3 2zm4-2zm7 5zm2-2zm1-3zm32 5zm27-8zm6 8zm6-8zm3 8zm-6 6zm-3-5zm-45 1zm-15 4zm-5 2zm-5 3zm-5 0zm-3-9zm-31 4zm-12 2zm-3 0zm-4 2zm-22-6zm-6-1zm-18 4zm7 9zm0 1zm20 1zm42-1zm2 6zm3-7zm4 0zm8 3zm2-5zm3 3zm16-2zm13 8zm1-4zm1-5zm1 6zm18-4zm5 8zm1-2zm2-7zm21 2zm20 18zm-40-10zm0 5zm-17 2zm0-4zm0-3zm-6 1zm-7 3zm-2 7zm0-4zm-1-3zm-15 7zm-6-7zm-2-1zm-23 6zm0-6zm-2 4zm-17-6zm-13 1zm-6 5zm-7 3zm-7 0zm-28-5zm-21 1zm-3 15zm30-2zm13 0zm2 4zm5-8zm4-3zm8 8zm12-4zm2 3zm7-6zm1 3zm1 2zm0-1zm1-2zm2 0zm16 6zm4-9zm1 0zm13 7zm0-3zm3 1zm1 0zm22 1zm12-3zm2 3zm19-1zm56 1zm-47 17zm-8-9zm-15-1zm-8 9zm-9-2zm-1 0zm-8-3zm-4 6zm-1-10zm-3 5zm-7 0zm-4-6zm0 4zm-1-1zm-6 5zm-7-2zm-2 4zm-8 1zm-4-5zm-8-2zm-1 6zm-7-3zm-22-7zm-9 10zm-1 1zm-7-6zm-2 3zm-43 7zm3 5zm30 0zm13-3zm24 2zm6 3zm1-2zm5-8zm12 5zm0-5zm12 5zm3 3zm10-1zm26-1zm8-1zm13 3zm20 1zm5-7zm14 8zm-24 11zm-15-4zm-2-1zm0 4zm-5-3zm-10-2zm-8 7zm-11 0zm-13-1zm-15-2zm-17-3zm0-3zm-21 5zm-9-4zm-2-2zm-34 11zm0 12zm14-7zm4-2zm8 8zm12-6zm3 6zm8-3zm7-3zm4 4zm7 1zm16-9zm1 6zm3-1zm4 0zm4 4zm3 0zm6-1zm2-2zm4 5zm6-10zm8 5zm4 3zm3-7zm2 6zm3 0zm36 5zm-12 6zm-25-1zm-8-4zm-3 6zm-6 0zm-2 2zm-5-4zm-1 5zm-1 0zm-1-5zm-2-2zm-7-4zm-18 7zm-2-7zm-10 5zm-1 2zm-7-5zm-26-2zm-2 9zm-4-8zm-7 4zm-11-4zm-19 21zm33-4zm1 0zm24 0zm3-1zm1 1zm12-6zm10 1zm12 0zm6 7zm2-8zm5 3zm1 6zm2-6zm1 4zm21-3zm16 1zm3-5zm1 4zm4 3zm1-4zm32 0zm-42 20zm-1-6zm-7-4zm-48 3zm-4-3zm-4 0zm-17 3zm-9-4zm-4 7zm-6-3zm-29 3zm-2 4zm-19 0zm-2-9zm-6 6zm-41 12zm33 0zm19-2zm20-1zm29 6zm11-6zm1 1zm14-2zm1 2zm1 2zm5-4zm4 7zm1-11zm9 9zm8-1zm5-1zm8 0zm3 1zm6 1zm11-6zm12 4zm1-1zm39 15zm-41 1zm-8-7zm-10-3zm-3 4zm-17 1zm-7 1zm-2-1zm0-3zm-9 4zm-9-2zm-3 2zm-3-4zm-35 6zm-3-6zm-4 6zm-5-5zm-3 2zm-1 2zm-1-1zm-7-3zm-11 0zm-21 6zm-50-4zm61 17zm3-6zm0 7zm11-9zm5 9zm4-11zm12 10zm7-5zm4-4zm7 10zm5-2zm5-9zm1 6zm16-2zm2-3zm13 5zm2 2zm17-1zm6 2zm10-6zm27 4zm11 14zm-16-4zm-32 3zm-26 0zm-21-8zm0 4zm-2 2zm-2-5zm-82-1zm0 8zm5 9zm3-2zm3-3zm9 9zm16-6zm20 7zm8-10zm10 7zm9 4zm4-7zm0-2zm1 0zm5-2zm3 2zm7 8zm0-5zm5-2zm2 3zm17-3zm8 3zm11 2zm19-7zm-5 19zm-3-2zm-5-6zm-4 8zm-3 2zm-7-1zm-7-6zm-6 6zm0-7zm-4 5zm-2-1zm-8 4zm-3 1zm-3-5zm-7-2zm-6-4zm-4 9zm-5-5zm-9 7zm-3-6zm-7 0zm-10-3zm-22 7zm-7 0zm-23-1zm28 5zm8 3zm6 4zm14-8zm8 2zm0-1zm0 8zm7-9zm0 2zm0 7zm2-3zm1-5zm8 1zm7-2zm6 5zm6-1zm10-1zm2-3zm1 9zm0-4zm3 5zm62 5zm-3 5zm-17 2zm-1-2zm-26-7zm-9 10zm-4-1zm-12 0zm-2-3zm-5-6zm-6 10zm-9-1zm-3-3zm-6 2zm-4-6zm0 7zm-2-10zm-8 6zm-11 5zm-3-4zm-15-6zm0 8zm-20 1zm-1-6zm-6 4zm-35 9zm7 5zm50 1zm16-8zm11 0zm4 5zm2-3zm3 4zm1 0zm2-6zm12-1zm2 4zm8 3zm6-1zm8-2zm1-6zm3 8zm2-2zm1-6zm2 3zm14 3zm17-1zm3 1zm6 3zm-2 5zm-8 5zm-12-3zm-41 2zm-7-4zm-7 2zm-6 3zm-6-4zm-10 6zm-34-3zm-2 2zm-1-2zm-22-3zm-8 4zm-14 4zm-4-7zm-28-4zm43 20zm7-1zm12 0zm21 0zm7-3zm22 3zm1-5zm6 5zm12 0zm3 0zm4-5zm7 7zm9 1zm3-6zm3-2zm2 5zm2-4zm3 3zm2 2zm1-5zm4-2zm1 8zm35-8zm7 6zm-18 12zm-2 4zm-18-6zm-7-1zm-6 4zm-9-7zm-12 3zm-2 5zm-9-5zm-12 2zm-1 5zm-15-11zm0 1zm0 4zm0 5zm-2-10zm-2 11zm-5-4zm-11 2zm-12-4zm-2-4zm-2 10zm-1-9zm-61 0zm-34 21zm56-10zm28 2zm9 4zm13-6zm4 1zm0 1zm0 7zm2-1zm3-2zm9 0zm2-2zm0-4zm3 4zm16 4zm11-9zm3 6zm3 0zm18-5zm0 0zm1 7zm2-1zm13-4zm3 7zm3-8zm4 3zm15-5zm-12 12zm-9 3zm-13 7zm-1-4zm0-5zm-7 0zm-5-1zm0 9zm-14-9zm-4 10zm-23-10zm-2 4zm-5 3zm-4-2zm-6-3zm-2 3zm-5 4zm-12 2zm0-6zm-10-1zm-21 7zm-2-3zm-11-6zm-12 9zm-1-9zm4 12zm3-1zm13 1zm10 6zm9-2zm33-4zm5-2zm10 8zm34-8zm3 4zm18-4zm5 4zm5-3zm34 11zm-16 0zm0 4zm-145 0zm-8 0zm0-4zm-18 5zm-2 16z"/>
<path id="g1_2" d="M310 80zm19 5zm-33 7zm-20 10zm9 2zm32 1zm3-7zm14-1zm3 0zm8 1zm18 15zm-14-5zm-2 4zm-4 3zm-18 1zm-2-8zm-9 11zm-12-11zm-3 7zm-13-1zm-25 14zm16-8zm13 1zm17 0zm10 3zm19 5zm6-3zm4-2zm7-2zm6 9zm1-6zm8-2zm10 7zm6-2zm10-5zm49 19zm-28-8zm-9 3zm-12 3zm-3-4zm-30 6zm-10-1zm-9-7zm-34 9zm-7 0zm-3 0zm-38 4zm21 0zm5 7zm18-9zm7 6zm2-6zm7 3zm20 4zm34-1zm3-5zm17 6zm0-5zm10-1zm1 4zm6-4zm15 3zm4 3zm-32 10zm-5-1zm-9-2zm-3 0zm-8 0zm-2 8zm-9-9zm-2 5zm-5 0zm-23 1zm-15-7zm-8 8zm-27-1zm-36 10zm31 1zm16 0zm32-1zm18 5zm10-3zm1-6zm3 3zm14 3zm30-8zm34 4zm7 12zm-35 4zm-3-4zm-1 6zm-27-2zm-7 3zm-3-6zm-5 0zm0 4zm-16-3zm-6-4zm-7-2zm0 7zm-6-7zm-2 1zm-4 5zm-5 5zm-6-5zm-12 5zm-9-7zm-8 3zm-16 0zm0 8zm6-2zm24 10zm25-9zm0 1zm6 0zm5 2zm4 0zm17-4zm34 9zm27-3zm16 6zm-23 0zm-19 6zm-10-3zm-13-4zm-25 0zm-4 10zm-2-4zm0 1zm-6 4zm-1-11zm-1 0zm0 9zm-1-5zm-23 5zm-2 1zm-8-2zm-24-3zm-31 3zm7 8zm15 4zm1-7zm8 6zm5-2zm5 0zm4-2zm18-3zm5 1zm10 6zm1-2zm5-4zm10-1zm4 1zm2 3zm4 1zm5 5zm1-4zm5 2zm65 2zm7-4zm12 2zm-73 12zm-19-3zm-6-3zm-18-1zm-27 10zm-11-6zm-9 5zm-11-7zm-13 4zm-46 10zm57 3zm12-2zm6 1zm3-7zm1 6zm3-3zm2 2zm0-3zm19 8zm15-4zm12-6zm9 11zm8-3zm1-8zm0 10zm21-1zm12-5zm0-2zm8 3zm2 4zm1-5zm-21 11zm-1 5zm-6-3zm-11-2zm-3-3zm-5 4zm-25 7zm-18-3zm-10 1zm-2-2zm-2-6zm-1 2zm-5-3zm-16 1zm-2 1zm-7 0zm-7-1zm-12 4zm18 7zm4 7zm1 2zm5 0zm8 2zm15-11zm1 4zm2 2zm15-1zm3-2zm2 2zm2 5zm5-4zm9-1zm20 3zm24-8zm15 3zm36-3zm-46 20zm-54 0zm-19-5zm-16 6zm-23-4zm0-1zm-16 7zm-6-9zm-20 6zm-6-8zm-6 18zm29-1zm3 4zm41-8zm3 5zm33 2zm9-1zm11-4zm3 1zm1-2zm0 4zm27-1zm22-4zm3 3zm6-3zm-38 17zm-21-3zm0 1zm-10-3zm-5 6zm-27-3zm-26 7zm0-10zm-9 7zm-12-1zm-32-7zm-3 9zm-11-5zm-5 13zm6 2zm28-5zm2 3zm18 0zm12-4zm1 3zm0 0zm1-3zm13 7zm12-2zm9-6zm4 7zm1 0zm8-4zm3 8zm2-7zm18 4zm34 3zm6 0zm10 8zm-10-5zm-65 9zm-1-9zm-2 6zm-1 1zm-1-7zm-6 6zm-19-2zm-4-5zm-4 8zm-9 1zm-21-1zm-10-2zm-3-1zm-15-6zm-1 4zm-3 17zm21-3zm17-2zm17 5zm14-2zm7 1zm4 0zm9-7zm10 9zm1-1zm7-5zm5 6zm4 1zm8-7zm4 3zm21-5zm1-2zm40 4zm-65 15zm-1 3zm-23-5zm-18-5zm-23 4zm-17 6zm-8-2zm-18-6zm-14 0zm-17 3zm27 17zm24-10zm4 4zm9 7zm1-4zm23 0zm9-2zm5 2zm18 1zm6-3zm0-1zm4-1zm3 8zm8 0zm15-9zm6 7zm5-9zm7 19zm-46-5zm-24 9zm-9-1zm-9-7zm0-1zm-25 7zm-9-4zm-2 3zm-21 0zm-33-2zm-4 5zm-2 3zm0 6zm18 0zm5-7zm10 10zm1-1zm3-10zm13 10zm39-10zm2 0zm0 10zm12-5zm1 4zm0 2zm5-3zm12-1zm5-3zm14-1zm13 0zm3 2zm14 6zm23-8zm2 7zm-31 3zm-27 4zm-16 2zm-1 3zm-32-6zm-1-2zm-24 7zm-15 2zm-1-11zm-2 8zm-33-1zm3 10zm6-1zm7-2zm12 2zm20 6zm10-2zm1-8zm4 9zm2-6zm9 1zm1 5zm7-6zm5 1zm11-4zm12 4zm17 0zm1 7zm1-3zm13-8zm7 0zm14 8zm1-5zm18 1zm-37 10zm-13-2zm-7 4zm-18 5zm-12 2zm-4 0zm-11-3zm-11-3zm-11-2zm-17 8zm-6-8zm0 3zm-16-4zm-9 8zm-3-9zm-50 7zm47 4zm22 2zm3 3zm10 0zm8-4zm20 3zm1 5zm24-3zm2 5zm6-10zm1 9zm3-4zm22 0zm12 5zm8-10zm-9 12zm-11 10zm-10-4zm-2-1zm-25-2zm-6 2zm-10-3zm0 4zm-7 2zm-3-3zm0-5zm-5 8zm-11-9zm-7 7zm-11-7zm-10 7zm-7-4zm-11 8zm-24-10zm-4 4zm-6 2zm-10 11zm21 0zm38 5zm4-3zm12-1zm10-7zm2 11zm2-10zm6 2zm16 5zm2-2zm7-6zm7 11zm1-11zm5 8zm9-3zm27-1zm9-4zm11 1zm11 15zm-4-4zm-5 2zm-25 3zm-7 4zm0-3zm0 0zm-10-5zm0 5zm-8-6zm0 11zm-2-6zm-4-3zm-2 4zm-2-2zm-19 7zm0 0zm-3-5zm-3-5zm-21 2zm-1 6zm-3-5zm-7 0zm-2 1zm-5-5zm-13 4zm-8 2zm-5 3zm-3-5zm-42 16zm47-5zm4-1zm0-2zm31 3zm10 1zm23 3zm6 4zm19-11zm13 8zm16 3zm16 4zm-15 1zm-77 1zm-86 6z"/>
<path id="g1_3" d="M352 82zm6 6zm-1 6zm-4-3zm-18-6zm-48 20zm23-4zm1-4zm16 2zm0 8zm10-11zm7 1zm6 6zm13 0zm1 11zm-13-6zm-4 6zm-29 3zm-11 2zm-33 2zm9 5zm28-3zm1-2zm6 7zm10-2zm13-5zm6 6zm45 0zm13 14zm-17 0zm-7-1zm0-7zm-8 1zm-4 8zm-8 1zm-4-7zm-4-3zm-17 3zm-11 5zm-5 0zm-25-8zm-8 9zm-3-1zm-7-9zm-7 8zm16 14zm4 1zm15-7zm10-2zm10-2zm5 10zm2-2zm0-7zm8 0zm20 8zm4 2zm2-7zm3 0zm2 7zm1-3zm2-5zm20-3zm14 9zm0 14zm-2-9zm-11 0zm-2 8zm-7-4zm-14-2zm-11-1zm-2 6zm-8 2zm-5-1zm-3 1zm-7-10zm-5 8zm-3-4zm-10-1zm-3-4zm-8 5zm-5 6zm-9-3zm-14-1zm-14 3zm-26 6zm10 3zm11-1zm37 0zm0-4zm35-1zm0 7zm10 0zm4-4zm29 4zm6-4zm6 2zm10-1zm4 0zm26-3zm11 11zm-33 8zm-19-6zm-7 4zm-5 0zm-10 4zm-6-3zm-1-3zm-18 0zm-2-1zm-4-3zm-4 5zm-1-1zm-2 3zm-3-2zm-10 1zm-4 1zm-18-2zm-13 5zm-20-1zm-10-2zm-20-1zm9 12zm12 0zm18 1zm1 1zm27 2zm18-3zm20 0zm11-2zm14 3zm1 1zm5 0zm18-10zm7 8zm2 2zm7-3zm40 9zm-4 7zm-13 0zm-8-11zm-9 3zm-18-3zm-2 7zm-32 0zm-13 4zm-2-2zm-15-1zm-6-4zm-7 4zm-14 0zm-1-2zm-10 4zm-2-5zm0 6zm-1-1zm-13-6zm-44 4zm-5-3zm8 17zm18-6zm0-1zm15-2zm4 9zm9-4zm4-1zm2 4zm19-7zm15 1zm3 2zm21-1zm2 3zm29 2zm1-8zm5-1zm26 0zm22 4zm-23 18zm-28 1zm-1-3zm-5-6zm-10 7zm-10-8zm-28 10zm-3 0zm-1-2zm0-7zm-4 1zm-1 4zm-4-2zm-7 1zm-28 2zm-32-5zm2 15zm6 3zm20 2zm21-11zm18 10zm17-1zm3-7zm1 6zm2-5zm10 1zm23-2zm9 4zm0 0zm2 0zm51 3zm-8 6zm-19-2zm-4 0zm-9 0zm-14 0zm-2-1zm-21 7zm-8-3zm-2 7zm-2-11zm-1 5zm-16-3zm-19 5zm-5-2zm0 2zm-4 3zm-29-4zm-44 4zm37 5zm7 1zm20 7zm4-4zm20-5zm22 7zm3-2zm19-6zm1 3zm0-2zm28 2zm10-4zm4 3zm14 12zm-10 7zm-6 0zm-10-8zm-9 3zm-7 2zm-10-7zm-14 5zm-3-4zm-5 6zm-5-2zm-4-1zm-7 5zm-13-7zm-2 7zm-3-3zm-5 4zm-1 1zm-3-7zm-4 5zm-5 0zm-21-4zm-6 1zm-8 4zm-15 13zm5-10zm1 5zm2-6zm14 10zm29-8zm3 1zm6 2zm23 6zm3-2zm19-3zm9 5zm2-9zm10 6zm24-5zm2 5zm22-2zm33 13zm-59 2zm-3-5zm-13 3zm-27-4zm-3 0zm-18 2zm-4 2zm-11 1zm-10 0zm-1-6zm-24 3zm-6-1zm-11 6zm-14-10zm-5 3zm-12 5zm-6 15zm19-6zm1-5zm24 3zm1 1zm55 7zm2-3zm15-1zm10 3zm58-6zm22-4zm-33 21zm-10 1zm-13-1zm-26 0zm-7-8zm-7 7zm-1 2zm-5-2zm-11-6zm-3 7zm-2-1zm-7 3zm-9-9zm-1 2zm-6-1zm-9-3zm-2 10zm-11-9zm-1 5zm-5 5zm-2-1zm-66-3zm41 15zm4-3zm10-4zm21 2zm4 3zm7 1zm13 0zm7-4zm16-5zm3 2zm12 3zm1 5zm1-9zm54-1zm14 7zm-33 10zm-12 5zm-20 1zm-9-8zm-4 6zm-1 0zm-1-8zm-4 7zm-2-8zm-12 9zm-2-3zm-6-3zm-14 2zm-1 2zm0-2zm-20 5zm-16-7zm-18 5zm-14-4zm32 11zm39 7zm1-4zm3 2zm19-2zm22-2zm5-2zm49 0zm13 19zm-12-9zm-10 4zm-7 5zm-30 0zm-1 2zm-7-7zm-4 3zm-3-5zm-11-1zm-11 9zm-4-2zm0-3zm-8 3zm-2-4zm-1 1zm-13 2zm-4 3zm-4-4zm-8-5zm-23 3zm-28 4zm73 9zm8-5zm9 1zm14 8zm0 2zm30-10zm9 1zm1 8zm14-4zm13 4zm-19 2zm-7 1zm-12 10zm-18-11zm-13 11zm-4-1zm-1-2zm-2-7zm-3 0zm-23 10zm-3-1zm-1-5zm-16-5zm-11 4zm-35 1zm-12 6zm-5 5zm9 1zm25 1zm17 2zm4-5zm1 4zm28 0zm8 2zm16-3zm4-2zm6-4zm1 10zm4-4zm5 0zm0-2zm3-3zm27 4zm5 3zm6-4zm5-1zm1 7zm1 1zm22-11zm4 16zm-25 2zm-28 0zm-8-2zm-5 4zm-8-3zm-9 5zm-10 0zm-20-1zm-3 0zm-6 0zm-2-8zm-1 6zm0-3zm-21 5zm-39 1zm-13-2zm40 11zm8-1zm12-1zm0 4zm12 1zm30-3zm10 3zm1-1zm16 1zm1-9zm1 7zm5 3zm4-2zm6-8zm8 6zm3-7zm18 12zm-2 9zm-36 1zm-12-9zm-6 10zm-11-10zm-10 1zm-3 8zm-1 0zm-6-1zm-3-4zm-4 0zm-10 2zm-7 1zm-7 1zm-3-8zm-3 7zm-5-8zm-5 1zm-67 11zm13 6zm24-1zm13-4zm6 9zm19-6zm16 5zm32-8zm5 5zm14-1zm1 3zm8 2zm7-10zm15 6zm54-6zm-70 21zm-2 1zm-6-9zm-5-1zm-6 5zm-4 1zm-31-4zm-1 2zm-5-2zm-11 7zm-29-8zm-10 3zm-19-2zm-28 7zm40 7zm30 7zm1-8zm14 1zm11 3zm2-6zm26 4zm33 5zm4-10zm32 23zm-71-9z"/>
<path id="g1_4" d="M299 94zm3 10zm30-1zm50 15zm-37-6zm-28 6zm-13-8zm-3 1zm-19-2zm0 17zm16-1zm15 2zm7-1zm31 4zm64 12zm-47-5zm-21-5zm-9 3zm-2 8zm-5-4zm-9-1zm-67 8zm4-2zm15 3zm16 0zm11 8zm9-5zm2 5zm4-4zm21 1zm5-5zm0 1zm21-1zm15 6zm12-9zm12 23zm-34-7zm-11 2zm-9-5zm-6 10zm-11-3zm-3-6zm-1 3zm-12 0zm-8 3zm-4-4zm-14-1zm-2 2zm-7 0zm-1 16zm5-5zm12 3zm2 3zm0-10zm2 0zm9 10zm15-7zm10 1zm0-2zm25 5zm1 2zm26 2zm32 8zm-9-6zm-6 9zm-39-5zm-6 1zm-7 2zm-11 0zm-14 3zm-21-3zm-44 3zm-23-8zm-4 18zm29-9zm12 3zm8 6zm29-3zm10-5zm7 7zm1 3zm12-2zm5-4zm11 6zm11-1zm6 1zm2-1zm3-7zm29 11zm-31 1zm-14 1zm-12 2zm-13 3zm-3-3zm-14 5zm-30-7zm-3 6zm-12-7zm-4 3zm-2 1zm-19 2zm-7-7zm58 15zm3 2zm2 1zm65-3zm0-4zm2 9zm17-3zm1-5zm20 2zm-23 11zm-44 1zm-1 1zm-3-5zm-25 1zm-9 8zm-41 1zm-2-10zm-5 11zm-46-7zm5 13zm5 4zm31-1zm5-5zm7 8zm29-9zm12 8zm7-5zm31 0zm41 3zm2-4zm33 15zm-33-3zm-45 0zm0 0zm-6-1zm-3 7zm-23 0zm0-8zm-8-2zm-3 5zm-11 1zm-1 2zm-16 3zm-8-10zm-40-1zm1 17zm46 0zm12-4zm26 3zm2 5zm32-5zm13 5zm8-5zm30-4zm18 12zm-6 3zm-2 3zm-46 5zm-1-10zm-5 2zm-9-1zm-6 5zm-31-3zm-21 5zm-1-7zm-5 1zm-13-2zm-24 0zm-35 10zm26 2zm1-1zm8 10zm7-7zm6 7zm5-6zm14 7zm20 0zm0-3zm7-3zm1 3zm1 2zm0-7zm4 2zm5 4zm1-4zm6-2zm24 3zm5 2zm12-7zm35 10zm-1 9zm-3-1zm-23 1zm-10-5zm-2 3zm-32-5zm-12 10zm-2-11zm-6 10zm-18-5zm-42 0zm-26 6zm-10-3zm6 13zm22-5zm25 0zm27-2zm7 9zm1-8zm2 0zm4 3zm7 3zm19 0zm6-8zm49 7zm-6 6zm-6 0zm-12 4zm-6-1zm-37 3zm-11 2zm-5-10zm-42 7zm-7-3zm-2-2zm-27 4zm-14-6zm-14 18zm79-5zm33 5zm4-1zm5 2zm2 0zm5-7zm27 9zm25-7zm16 11zm-18 8zm-4-2zm-15-5zm-8 1zm-9-1zm-6-1zm-1-1zm0 5zm-35 1zm-30 2zm-43 1zm-4-3zm-20-2zm18 9zm7 7zm3-5zm12 5zm34 2zm10-2zm31-2zm6 0zm9-3zm7 2zm1 4zm1 0zm22 0zm7-1zm20-4zm-14 11zm-10 1zm-26 7zm-6-8zm0-3zm-53 7zm-13-2zm-5-2zm-7-2zm-10-1zm-11 2zm-1 21zm3 0zm11-10zm5 9zm5-5zm11 1zm35-1zm19-1zm21 6zm59-5zm3 10zm-74 7zm-22-5zm-1-5zm-11 7zm-12-5zm-7-1zm-4 2zm0 7zm-5-5zm-2-3zm-1 7zm-72-1zm-9 0zm-9 9zm50 3zm12 0zm5-4zm5 3zm4 0zm3-2zm26-5zm0 0zm14 6zm4-3zm32-1zm20-2zm9 21zm-35-5zm-11 6zm-5-8zm-1 3zm-6 2zm-10 2zm-10 0zm-19-6zm-23-3zm-9 1zm-11 10zm-19 6zm9-2zm7 7zm10-6zm1 0zm3-1zm1 0zm14 3zm3 1zm11 3zm5-4zm9-3zm20 5zm21-4zm1 3zm45 0zm3 4zm26-6zm-34 8zm-28 8zm-21 1zm-5-5zm-2 5zm-13-9zm-31 0zm-12 3zm-20 2zm-11 0zm-43-3zm91 19zm4-10zm12 11zm3-11zm23 5zm15-4zm22 1zm-6 11zm-1 8zm-25-3zm-1-2zm-1-4zm-12 4zm-3 0zm-5 7zm-2-2zm-10-1zm-3-2zm-6-2zm-2 6zm-7-4zm-8 2zm-7-6zm-4 3zm-1 5zm-3-2zm-15-1zm-37 2zm-2 3zm42 0zm6 11zm11-4zm0-5zm13-1zm8 8zm39-7zm24 8zm2-6zm1 1zm15-4zm20 7zm-8 8zm-54-2zm-103-2zm-20 19z"/>
<path id="g1_5" d="M320 91zm-29 7zm2 4zm14-5zm1 1zm2 8zm3 0zm20-2zm15 11zm-11 2zm-3-2zm-4-6zm-4-1zm-9 3zm-3 7zm-10 0zm-41 7zm28-1zm7-2zm35 4zm16 0zm9 5zm6-8zm43 7zm-21 3zm-23 0zm-60 4zm-36 17zm23-1zm17-3zm20 4zm33-6zm44 6zm2-1zm34 3zm-53 2zm-2 8zm-24 0zm-4 0zm-29-4zm-32 3zm-2 0zm-4-1zm-10-2zm-46-1zm91 12zm4 5zm7-7zm47 5zm13 3zm7-6zm11-5zm33 17zm-33-4zm-12 5zm-15-2zm-46-4zm-2 1zm-23 7zm-1-4zm-2-3zm-11-1zm-2 0zm-1 1zm-6 2zm-2 4zm-15-3zm-14-1zm-42 17zm66-3zm11 3zm22-5zm20-2zm15 9zm22-6zm8 2zm32 6zm-20 8zm-1-4zm-28-4zm-3 8zm-7 0zm-8-8zm-36 3zm-20 6zm-9 2zm-24-1zm-33 1zm60 6zm6 4zm27-4zm13-4zm1 6zm10-1zm2-4zm6 0zm0 3zm23 6zm6-1zm1-2zm47 3zm-15 6zm-37-4zm-8 2zm-36 1zm-2 3zm-16-2zm-12 2zm-19 0zm-14 4zm0 2zm2 5zm8 5zm0-8zm5 6zm18-3zm60 2zm25-6zm46 8zm-57 9zm-20-2zm-38 0zm-4-4zm-1 4zm-14 0zm-7-1zm-13-2zm-37 19zm29 2zm6-6zm17 3zm1-5zm3 0zm3 3zm8 2zm2-8zm14 3zm5-3zm14 6zm27-4zm-15 12zm-75 4zm-14-3zm-14 1zm0 1zm-13-1zm8 10zm2 2zm13 1zm8-5zm6 9zm21-4zm76 13zm-43-3zm-3-3zm-3 9zm-39-6zm-21 5zm-71 14zm69-1zm1-2zm18 3zm29-1zm5-3zm29 4zm8 1zm60-2zm-35 8zm-34 1zm0 2zm-14 2zm-8-9zm-11 10zm-2-3zm-24-7zm-3 0zm-21 10zm-18-4zm-31 5zm54 3zm7-1zm1 9zm13-1zm1-8zm32-2zm81 11zm-9 8zm-40 0zm-21-7zm-11 7zm-10-5zm-35 2zm-4 0zm-14-2zm-22 5zm0 4zm-8-7zm-23-1zm54 15zm4 5zm22-5zm13-4zm19 1zm1 3zm9 1zm10-6zm18 1zm7-1zm7 2zm50 14zm-69-5zm-5 0zm-8 5zm-26 6zm-3-6zm-29 0zm-5-3zm-53-2zm19 21zm41 0zm9-8zm5 7zm5 3zm0-4zm5-6zm33 5zm54 4zm-34 11zm-15 2zm-5-7zm-11 0zm-14 2zm-9 4zm-3-5zm-17-5zm-17 6zm-16 4zm-9 1zm-1-6zm-14 18zm113-10zm2 5zm18 14zm-27-6zm-22 4zm-3-5zm-8 0zm-3 3zm-8 2zm-16-5zm-5 1zm-13 9zm-3 0zm-55 0zm1 1zm23 4zm14 0zm3 7zm3-9zm21 8zm1-2zm16 0zm11 1zm13-9zm48 2zm24 17zm-47-4zm-23 0zm-5 4zm-32 3zm-2-7zm-28 1zm-5-1zm-39 6zm-8 0zm-2-3zm11 6zm1 3zm26 7zm2-6zm0-4zm28 5zm2 6zm3 0zm22-5zm15-6zm27 5zm42 18zm-49-11zm-2 4zm-4 4zm-3-1zm-12 4zm-7-10zm-15 4zm-18 3zm-5-5zm-5 5zm-21-2zm-1 2zm-1-2zm-9-5zm-5 7zm-6-5zm-4 0zm-23 3zm-3-6zm-14 0zm-17 7zm14 12zm39 0zm23 2zm12-9zm5 1zm5 2zm29-3zm12 4zm10-3zm30 1zm7 7zm-53 3zm-100 2zm-19 15z"/>
<path id="g1_6" d="M313 102zm35-1zm11 17zm-2-9zm-6 6zm-19 4zm-46-2zm8 6zm28 3zm19-5zm2 0zm11 2zm9 8zm12-8zm4-1zm30 15zm-20 3zm-3 1zm-28-7zm-4 3zm-31-5zm-34 3zm-16 1zm0 18zm24-10zm97 10zm-20 11zm-49 1zm-39-3zm-26 0zm-6 14zm2-4zm7 0zm3 0zm55 4zm7-6zm26 1zm18 7zm1 0zm6-4zm-4 5zm-3 7zm-10-5zm-13-2zm-8 11zm-82-1zm-35 12zm73-4zm0-3zm13 5zm40-5zm45 1zm22 5zm-10 5zm-17 3zm-18 6zm-31-1zm-2-8zm-11-2zm-44 3zm-46-1zm40 20zm49-8zm8 5zm1-1zm7 5zm1-9zm13 2zm1 3zm12 2zm2-5zm35 14zm-15-1zm-30-3zm-11 3zm-41 0zm-2 0zm-6-4zm0 4zm-21 2zm-31-7zm-15 17zm14 0zm36 6zm9-5zm11-1zm0 1zm9 5zm3-5zm11-3zm10 2zm16 0zm64-4zm7 20zm-22-7zm-28-1zm-8 1zm-3 8zm-81-1zm-18-1zm-40 2zm-5-3zm9 6zm24 5zm3-6zm8 5zm32-3zm11 0zm4-1zm7 4zm14 0zm50 2zm25 2zm-50 13zm-50-6zm-5 7zm-19-2zm-6-6zm-90 10zm50 4zm21-1zm30-4zm14 0zm25 11zm62-7zm13 2zm-39 6zm-33 2zm-1 8zm-14-5zm0-3zm-13 6zm-11-1zm-1 3zm-15-4zm-43 17zm42-3zm8-7zm0 4zm3-2zm29 0zm28 8zm6-2zm7-1zm10-6zm0 12zm-23 4zm-25 2zm-67 0zm-23 11zm15 0zm15-2zm34 2zm0 2zm13 2zm9-3zm25 2zm21-1zm34 2zm-47 8zm-17 0zm-4 2zm-7 2zm-16-11zm-21 2zm-2 3zm-26-5zm-21 8zm19 6zm9-1zm11 7zm38-5zm44 4zm52-3zm-55 11zm-5 4zm-62-6zm-11 2zm-5-3zm-7 6zm-2 0zm-4 1zm-27-2zm-18-1zm47 14zm6-3zm112 10zm-11 2zm-57 0zm-29 3zm-6-3zm-12 0zm-2-2zm-72 2zm51 15zm11-4zm3 0zm6 4zm29-1zm16 5zm35-4zm39 10zm-62 1zm-4 3zm-8-8zm-14 2zm-23 9zm-8-6zm-14 0zm0-2zm-24 16zm35 3zm4-4zm3-5zm4 1zm34 3zm33 1zm4 1zm31-5zm5 15zm-35-4zm-51 2zm-15 6zm-14-6zm-5-2zm-2 1zm-3-2zm-3 0zm-21 11zm-55 8zm28-1zm55-3zm20 5zm1-8zm7 3zm2 7zm3-1zm2 2zm60 8zm-29 4zm-3 0zm-18-2zm-5-3zm-15-2zm-36 2zm-5 1zm-9-5zm-19 8zm-25-1zm18 6zm91 1zm33 2zm23-4zm26-1zm-1 15zm-15-2zm-232 18z"/>
<path id="g1_7" d="M338 80zm9 1zm6 11zm-36 2zm-7-5zm-14 7zm28 8zm16-1zm3 0zm4-4zm18 6zm-6 10zm-39-7zm-7 8zm-11 3zm40 7zm2 4zm18-8zm6 0zm49 12zm-45 3zm-6-5zm-44 9zm0-8zm-24 9zm-43 0zm90 9zm5-3zm0-2zm1-1zm21 4zm18 0zm51-3zm8 10zm-59 11zm-15-2zm-55-6zm-9 3zm0-5zm-24 0zm-15 3zm-3-3zm17 13zm6-1zm6 4zm1-5zm2 8zm48-4zm30-2zm17 5zm46 1zm-78 7zm-6 4zm-16 3zm-69-4zm-2 7zm26 2zm29 1zm11 7zm10-5zm37 5zm10-4zm-29 16zm-38-3zm-6-5zm-22 1zm-6-1zm-4-1zm-2 4zm-27-6zm-15 15zm57 2zm17 2zm3-4zm13 4zm44-1zm16 16zm-11-1zm-2-6zm-55-3zm-20 4zm-16 4zm-6-3zm0 0zm-51 16zm102 1zm38-5zm52 13zm-40-1zm-24-3zm-51-1zm-15 10zm-10-3zm-82 11zm26 2zm26-5zm18 5zm3-3zm2 4zm13 1zm17-5zm21-2zm0-2zm3 5zm13-2zm19 5zm3-10zm13 8zm75 3zm-95 5zm-10 2zm-16-5zm-38 8zm-40-5zm18 9zm7 0zm0-1zm26 1zm5 10zm14-5zm2-2zm21 5zm5 4zm-22 9zm-25 1zm-1-7zm-17 6zm-5-6zm-53 16zm86-1zm20 14zm-12 2zm-47-2zm-3-3zm-30 16zm20-8zm71 9zm2-7zm28-2zm28 16zm-32-6zm-9 3zm-21-3zm-6 6zm-18 4zm-4-7zm-11 4zm-2-3zm-12 4zm-25-6zm-2 5zm-11 16zm32-4zm40 2zm47 1zm-53 11zm-1 1zm-46 0zm-4-8zm-31 6zm-9 0zm-12 3zm-24-11zm23 14zm18 9zm21-4zm20 4zm5-4zm4-3zm10 0zm3 4zm38 2zm27-9zm15 20zm-6 0zm-59-4zm-22 2zm-20 3zm-3-1zm-56 0zm4 10zm12 3zm12-6zm57 2zm39 1zm21 3zm21-9zm6 7zm-26 5zm-46 7zm-1-6zm-16 0zm-10 3zm-52-2zm3 19zm4-2zm21 3zm14-6zm12 3zm13 2zm2-7zm0-2zm49 9zm13 4zm-19 0zm-9 4zm-31-4zm-34 6zm-8-5zm-6-1zm-2-1zm-45 7zm0-6zm23 13zm6-2zm6 8zm10-5zm5 5zm8 1zm0-7zm23 3zm6-1zm3-3zm4-1zm14 9zm6-6zm1-2zm3 4zm7-3zm21 5zm-2 13zm-5-2zm-56 0zm-1 4zm-1-2zm-67 0zm-15 1zm-5-1zm-5-4zm-13 17zm12-10zm39 0zm25 1zm21 7zm23-2zm4 3zm25-7zm5-2z"/>
<path id="g1_8" d="M348 89zm-29 14zm44 5zm-2 2zm-49 6zm9 11zm36 2zm8-4zm26 18zm-6-6zm-25 6zm-37-1zm-22-8zm-15-2zm21 21zm34-3zm39-2zm4-4zm22 7zm16-7zm-43 22zm-6-9zm-32 6zm-6 3zm-8 1zm-19-9zm-62 1zm-5 7zm50 13zm17-10zm28-1zm43 7zm37 12zm-10-2zm-23-2zm-4-3zm-106 0zm-39 10zm23 9zm26-2zm10 2zm19-1zm73 0zm25 11zm-8 3zm-36-5zm-27 4zm-41 2zm-9 12zm19-4zm15-5zm19 9zm10 2zm2-8zm76 9zm-65 9zm-17-6zm-18 2zm-25 2zm-41 16zm51-3zm5-4zm1 2zm6 0zm111 10zm-65-2zm-47 1zm-25-1zm-82 2zm86 17zm4-2zm41-6zm24 7zm10 2zm-61 5zm-13-2zm-40 0zm-21 7zm-64 6zm108 2zm8 2zm110 6zm-72 3zm-58-2zm-46 10zm-18-9zm-8 17zm72 1zm13 0zm8 1zm53-9zm43 2zm-106 17zm-54-5zm-20 6zm37 11zm32-1zm8 5zm47-1zm6-10zm31 3zm-50 9zm-31 11zm-6-5zm-11-1zm-20-3zm-13 4zm-49 0zm64 6zm25 1zm21 10zm11-6zm10-2zm37 2zm-51 10zm-4 1zm-6 6zm-1-10zm-9 1zm-89 6zm-21 1zm37 4zm11 4zm25 5zm21-4zm17-2zm6 3zm51-6zm-39 17zm-11-4zm-57 6zm-7 0zm-30 4zm-5-5zm-22 3zm44 8zm3-2zm5 4zm9-7zm40 9zm48 2zm81 8zm-67-2zm-22-3zm-35 3zm-16 6zm-6 0zm-6-2zm-40 12zm12-3zm40 3zm15-5zm21 1zm12 3zm52 12zm-50 3zm-26-1zm-3-8zm-17 2zm-42 5zm16 12zm30-7zm27 9zm0-7zm77 17zm-52-8zm-11 3zm-59-2zm0 5zm-22-2zm-5 0zm-21 1zm-26 0zm3 6zm10 6zm53-1zm-70 13zm-4-2zm-15 1z"/>
<path id="g1_9" d="M349 92zm-50 4zm16 0zm16 7zm-20 6zm9 14zm83 9zm-7 4zm-9 4zm-65 0zm-60 7zm43-2zm15 3zm15 4zm3-4zm12 3zm5-2zm53 3zm3-3zm-44 12zm-31 4zm-67-5zm-19 13zm50 5zm15-10zm35 4zm25 7zm8-6zm22 1zm5 16zm-74-2zm-2-1zm-43-6zm61 12zm25 17zm-14-6zm-20 6zm-10 4zm-2-7zm-12 3zm-1 3zm-56-4zm122 15zm-5 13zm-3-7zm-59 7zm-35 0zm-1-7zm23 15zm28-4zm37 2zm-32 13zm-72-3zm7 21zm35-2zm26 3zm59 11zm-15 0zm-20 0zm-90 0zm-36-9zm-5 11zm141 13zm-7 10zm-43-9zm-7 0zm-8 1zm-11-3zm-2 7zm-31-2zm27 15zm70-8zm17 1zm17 13zm-7 7zm-3-7zm-82 6zm-17-3zm-17 9zm36 5zm5 2zm68-6zm-23 15zm-43 4zm-6-8zm-15 6zm-69-7zm-47 8zm108 10zm73 8zm-29 0zm-17 0zm-46 6zm-5 1zm-49-9zm-14 1zm86 19zm0 0zm46-6zm12 1zm-36 14zm-7 1zm-9-3zm-48-4zm-48 7zm25 9zm22 2zm43-6zm1 0zm42 6zm29 0zm2 1zm-10 8zm-67 7zm-15-1zm-6 14zm2-7zm58 0zm9-3zm21 4zm-71 16zm-13-2zm-10 2zm-13-6zm-1 2zm-19 2zm-6-4zm46 20zm7-10zm32 0zm28 11zm-6 10zm-41 0zm-31 4zm92 1zm43 2z"/>
<path id="g1_10" d="M339 87zm-25 7zm-17-5zm23 14zm10 4zm10-4zm1 4zm26 1zm-3 9zm-31-9zm-38 3zm-21 1zm32 16zm14-1zm46 4zm8-10zm5 6zm-8 11zm-36-4zm-8 8zm-43 0zm-22-10zm7 13zm23 6zm1-2zm21-4zm47 6zm15 2zm10-2zm31 1zm0 13zm-19-2zm-98 14zm10-6zm3-2zm26 14zm-12 6zm20 12zm6 2zm86 7zm-83-1zm-2 5zm-5 1zm-113 9zm124-7zm10 9zm26-8zm-12 17zm-36 3zm-5 0zm-64-1zm31 10zm29-7zm95 18zm-104 0zm-16 2zm-54 3zm-5 5zm4-2zm4 8zm39-10zm44 20zm-25-6zm-23-1zm-14 7zm-55-1zm137 9zm-17 13zm-11-5zm-3 6zm-54 3zm-28 8zm6 2zm41-3zm5 3zm42-7zm52 4zm-131 17zm0 1zm-12 1zm-8 10zm4-1zm73 0zm31 1zm73-3zm-97 11zm-43 2zm-12-2zm-21-5zm-17 6zm-2 12zm19-3zm29 8zm31 0zm13-11zm16 8zm3-6zm17 8zm-85 13zm-71 0zm54 4zm15 8zm24-2zm9-6zm39 16zm-7 0zm-16 2zm-26-8zm-40 5zm-71 8zm30 0zm66 8zm27-10zm2 11zm45 8zm-42 4zm-12-7zm-12 5zm-7-9zm-6 0zm-3 10zm-17 0zm-29 5zm17-1zm6 8zm32 0zm13-2zm28-6zm44 11zm-139-1zm-77 13zm35 1zm38 4zm25 2zm17-2zm14 2zm36-6zm-62 18zm-49-1zm147 9zm-13 10z"/>
<path id="g1_11" d="M310 90zm43 16zm-2 10zm-24-1zm-7 3zm-59 13zm61-5zm1 4zm3-2zm3-1zm1-5zm33 18zm-60 1zm-24 1zm10 13zm6-3zm11-7zm59 3zm19-2zm7 9zm-2 12zm-56-9zm-70 9zm35 2zm128 5zm-44 10zm-47-4zm-47 0zm-44 4zm42 19zm39-5zm2-6zm5 8zm7-7zm10 4zm55-2zm20 6zm-82 3zm-8 6zm-4-1zm-34-3zm-39 4zm-6-6zm67 14zm3 5zm7 1zm42-3zm-20 11zm-44 2zm0 0zm-6-2zm-32 7zm11 5zm30 4zm3-8zm67 16zm-44-3zm-18 5zm-56-5zm-3 11zm47 7zm34-4zm42-1zm-27 10zm-6 7zm-1-2zm-53 6zm-26-1zm-24 11zm43-4zm20-1zm97 11zm-23 2zm-123-1zm74 17zm24 5zm-23 6zm-7-4zm-30 6zm-30-3zm-8-5zm-33 9zm35 3zm30 4zm6 4zm0-4zm42 2zm19 14zm-113 0zm18 3zm49 2zm28 3zm-19 11zm-6-3zm-18 1zm-25 5zm-35-2zm-22 14zm89-2zm22-3zm44 19zm-72-10zm-6 0zm-14 9zm-7-9zm-56 0zm-33 16zm87 0zm78 5zm-2 10zm-25 0zm-72-4zm-20 3zm45 12zm33-5zm20 9zm6 0zm-9 3zm-110 9zm-19-7zm91 13zm4-2zm-4 16zm-41-2zm-56 13zm50 0zm39-1zm15-2zm15 2zm-145 27z"/>
<path id="g2_0" d="M406 136zm-14 6zm6 10zm11 1zm19 1zm12 1zm14-6zm2 10zm-9 3zm-111 10zm92 2zm1-5zm4 4zm5 1zm7 3zm10 5zm-2 1zm-19-2zm-6 9zm0-4zm-12-3zm-22 6zm-2 1zm10 13zm15-10zm2 9zm8-9zm2 8zm2-3zm6-5zm11 2zm0 2zm9-2zm4 18zm-16-5zm-37-3zm-9 2zm-22 12zm0 6zm10 2zm21-1zm11 1zm0-5zm5-4zm9 8zm1 1zm2-7zm6 7zm19 4zm-6-1zm-4-1zm-10 3zm-4 2zm-13 5zm-6-2zm-6-3zm-5 0zm-41 6zm18 1zm18 4zm20-4zm6 1zm2 9zm2-1zm9-9zm10 0zm4 2zm1 0zm11 0zm15 7zm0-4zm3-4zm13 14zm-8-1zm-13 1zm-1-1zm-3 1zm-4 1zm-4 1zm-4 0zm-11-2zm0 4zm-5-8zm-6 9zm-2-7zm-6-2zm-11 11zm-1-6zm-4-4zm-6 10zm0-1zm-3-8zm-15 3zm-15 5zm1 3zm14 1zm21 6zm1-5zm12 5zm2 3zm1-6zm3 1zm3-5zm5 5zm11-4zm3 4zm30-5zm16 3zm18 5zm29 9zm-10 3zm-14-3zm-1-6zm-1 7zm-12-3zm-1-2zm-8 4zm-3 0zm-1-4zm-7 9zm-17-7zm-15 6zm-8-4zm-2 0zm0 5zm0-10zm-2 1zm-16 6zm-2-4zm-1 2zm-2-6zm-4 8zm-2 3zm-4-8zm-16-2zm-8 10zm-22 12zm5-1zm7-4zm3 2zm17 3zm1-10zm24 0zm6 1zm1 8zm1-8zm2 3zm3 6zm1-1zm6 0zm3-1zm2-3zm7-3zm7 6zm2-6zm7 7zm8-6zm3-4zm2 2zm2 4zm0-5zm3-1zm8 3zm14 7zm6-3zm1-7zm2 5zm16 2zm7 1zm18 0zm30 15zm-51-4zm-30 4zm-7-4zm-16-5zm-4 2zm-4 5zm-3-8zm-7 3zm-2 0zm-9 2zm-17-3zm-3 3zm-4-3zm-7 7zm-4-1zm-4 2zm-1-1zm0-6zm-12 6zm-8-8zm0-1zm-7 5zm-7 3zm-6-9zm-50 7zm-4 15zm48-8zm6 8zm11-6zm3 4zm4-8zm13 0zm2 8zm1 0zm16 3zm9 0zm7-4zm5-3zm8 1zm9-2zm3 3zm24-5zm7 0zm7-1zm8 0zm8 5zm4 0zm3 2zm3-6zm9 2zm25-2zm-4 12zm-21 7zm-12 2zm-9 0zm-4-2zm-1-3zm-25 2zm-8-1zm-4 1zm-4 1zm0-5zm-1 7zm-6-2zm-3-3zm-9 0zm-8-3zm-5-2zm-7 3zm-1-1zm-3 1zm-3 1zm-2 6zm0-4zm-26-4zm-12 9zm-7-9zm-35-1zm26 16zm30 2zm6 4zm1-2zm6-4zm4-2zm5 1zm4 5zm1-6zm11-2zm10-1zm5 5zm0-3zm3 3zm5 4zm31 2zm1-4zm11-1zm8-2zm6 3zm11-7zm-7 16zm-9-4zm-2 4zm-10 0zm-17-4zm-23 10zm-15-5zm-9-5zm0 10zm-1-7zm-8-1zm-11 6zm-9 3zm-9-9zm-8 8zm-28-1zm-31-1zm9 15zm6-1zm27-5zm19 1zm2-3zm2 1zm8-1zm4 8zm5-5zm2 2zm9-3zm23 3zm1-2zm0-4zm1-2zm22 1zm2 1zm4 2zm1 1zm1-1zm15 7zm5-5zm18-1zm22 2zm-22 16zm-3-9zm-7 9zm-28-2zm-18-9zm-2 8zm-4 3zm-21-10zm0 5zm-11 0zm-1 0zm-12-4zm-6 7zm-9-2zm-2-5zm0 6zm-10-7zm-6 5zm-2 2zm0 1zm-10-3zm-32-4zm-50 11zm50 10zm0-7zm16 1zm1 3zm10 3zm12 0zm1-3zm10-7zm2 10zm10-8zm26 6zm1-3zm10-5zm8 10zm13-2zm3-3zm3 2zm9 1zm5-7zm3 8zm10-5zm6-3zm0-2zm5 4zm7 3zm5 1zm13-6zm11 2zm10-2zm-9 10zm-7 6zm-6-1zm-1-1zm-1-1zm-1 1zm-7 6zm-2-8zm-1-2zm-6 5zm-3 6zm-7-6zm-4 1zm0 0zm-1 5zm-9-7zm-5 6zm0 0zm-1-7zm-2 8zm-1-3zm-2-3zm-2-1zm-3 6zm-12-7zm-12-1zm-9 3zm-1-5zm-1 2zm-3 4zm-3-6zm-2 6zm-1 5zm-1-9zm0 3zm-1 1zm0-4zm-3 3zm-9 3zm-4-4zm-10-4zm-2 5zm-5-3zm-1 9zm-24-1zm-6-5zm-7-2zm-16 1zm-11 10zm31-2zm9 9zm21-3zm21 2zm2 3zm2-9zm0 7zm8-2zm3 1zm1 0zm20-8zm2 5zm1-3zm1 5zm14-3zm4 4zm2 1zm2-5zm4 2zm20 5zm8-2zm5-5zm16-3zm16 1zm8 3zm-26 14zm-15-3zm-13-2zm-1 5zm-5-5zm-1 7zm-3 0zm-3-9zm-4 6zm0 3zm0-8zm-5 9zm-7-7zm0-2zm-3 8zm0-1zm-7-7zm0 2zm-3 4zm-9-2zm-4 2zm-11-4zm-5 0zm-6 7zm0-7zm-1-2zm-5 0zm-5 1zm-3 7zm-2 1zm-6 1zm-7-9zm-8-2zm-7 6zm-2-2zm-50 18zm2-8zm18 4zm15-3zm3-3zm2 1zm21-1zm4 3zm0 0zm2 2zm2-1zm2 7zm8-1zm3-4zm2 4zm0-7zm9 2zm1-1zm13 1zm3-1zm1-3zm4 5zm4 3zm2-7zm11 5zm3 1zm8-8zm1 3zm0 7zm10-5zm5 4zm1-8zm2-1zm5 8zm6-7zm5 2zm5 2zm5-1zm2 1zm1-1zm32 16zm-26 0zm-5-7zm-5 10zm-3-4zm-5 0zm0 1zm-11 1zm-4 1zm-2 1zm-3-3zm-4 2zm0-1zm-2-3zm0 4zm-1-2zm-8 0zm-4-7zm-3 8zm-3-6zm-3-1zm-2 4zm-7 5zm-6-1zm-4 1zm-5-7zm-4 1zm-3 4zm-7-2zm-5-6zm-3 7zm-2-6zm-2 2zm-7 7zm-4-10zm-13 4zm-4-4zm-13 2zm-9 3zm-7 1zm-5 4zm-37 12zm24-4zm3 3zm8-5zm18-5zm6 11zm17 0zm9-3zm0-3zm3-3zm7 7zm7 0zm2-4zm7-4zm2 5zm6-1zm5-1zm3-2zm0 9zm3-4zm5-6zm8 4zm2-4zm2 8zm0 0zm1-5zm6 5zm3-7zm13 6zm3-2zm6 0zm4-3zm8 0zm48 9zm-11 0zm-12 5zm-7 1zm-2-6zm-15 10zm-5-5zm-5-2zm-1-1zm-7 7zm-3 2zm-14-8zm0 6zm-14-1zm-10-2zm-15 5zm-3-6zm-2-1zm-2 3zm-2-6zm-4 1zm-14 2zm-12 7zm-19-3zm-2-3zm-2 1zm-6-3zm-16-2zm-1 10zm-43-6zm33 10zm31-3zm2 0zm6 2zm17 4zm8 5zm3-10zm13 0zm3 7zm4-6zm4 3zm1-5zm12 0zm4 1zm2 7zm3 1zm2-5zm2 2zm0-1zm21 5zm8-10zm19 8zm1-8zm8 11zm14-1zm-5 3zm-13 5zm-2-6zm-2 9zm-1-7zm0 5zm-5-1zm-5 1zm-7 0zm-1-5zm-2 1zm-9 2zm-4 5zm-16 1zm0-8zm-11 3zm-11 1zm-5-2zm-4 0zm0-2zm-2 1zm-1 1zm-4 3zm-13 3zm-16-6zm-18 6zm26 2zm0 5zm19-3zm3 6zm10 1zm12-9zm0 9zm4-6zm3 5zm16 2zm10-8zm1 1zm20 3zm22-4zm0 10zm-6 9zm-6-4zm0 0zm-4-3zm-3 4zm-1-4zm-7 1zm-12-3zm-2 7zm-10-3zm-3-2zm-1 7zm0-3zm-13-1zm-4 0zm-29-5zm29 18zm3 0zm1-7zm4 1zm9 1zm10 9zm11-9zm2 4zm9-5zm2 6zm3 1zm15 0zm8 2zm-2 7zm-11 6zm-4-9zm-19 3zm-2-4zm-9 7zm-5-6zm51 10z"/>
<path id="g2_1" d="M405 137zm-26-1zm29 15zm36-4zm1 16zm-9 4zm-8-7zm-1 2zm-5-5zm-46 0zm14 19zm12 2zm3 0zm21 0zm14-9zm9 10zm2-3zm9 2zm-4 5zm-6-3zm-9 10zm-1-6zm-16 3zm-16-5zm-23 20zm9-10zm7 10zm7-7zm10 3zm2-1zm40 14zm-10 0zm-6-5zm-2 2zm-1 4zm-3-1zm-6-5zm-7 0zm-7 9zm-12-1zm-5-2zm-19 1zm0 2zm-22 3zm19 7zm9-5zm21-3zm12 0zm10 10zm18 0zm1-3zm13 3zm2 1zm-2 1zm-1 9zm-4 0zm-1-5zm-24 1zm-1-2zm-2 2zm-31 9zm7 3zm7 3zm32-4zm1 4zm17 1zm19 1zm2-3zm2-8zm5 10zm37 11zm-36-8zm-1 7zm-5 2zm-3-2zm-8-3zm-14-1zm-5-3zm-10 4zm-41 4zm-12 1zm-39 1zm20 1zm24 2zm8 3zm5 4zm11-9zm2 9zm13-7zm4 4zm1 3zm13 0zm14-5zm8 0zm5-1zm2 0zm2-2zm3 2zm2 0zm5 7zm3-6zm1-2zm6 9zm13-3zm0-1zm16 8zm-11 1zm-10 6zm-14-7zm-5-2zm-13-1zm-14 9zm-1-8zm-2 10zm-3-8zm-4 1zm0 7zm-6-6zm-8 1zm-1-5zm-3 6zm-1 0zm-4 1zm-7 1zm-6 0zm-2-3zm0-3zm-2 8zm-8 0zm-5-9zm-5 3zm-8-5zm-18 1zm-16 14zm26 7zm9-6zm0 2zm1 3zm11-2zm8-2zm13 5zm5-5zm7 5zm22-6zm1-3zm3-1zm2 11zm6-2zm18 1zm8-2zm1-4zm1-2zm1 1zm7 7zm8-2zm11-8zm1 0zm11 1zm2 4zm9-1zm-24 16zm-1-8zm-4 5zm-14-2zm-26-2zm-5 8zm-1-9zm-3 4zm-33 3zm-2 3zm-6-8zm-10 1zm-3 4zm-70-3zm3 9zm22 8zm6 0zm63-2zm3 0zm13-6zm2 7zm3-7zm4 8zm16 1zm6 0zm10-6zm15-2zm7 4zm0-6zm4 4zm10-3zm7 8zm14 0zm41 3zm-55 1zm-21 10zm-2-10zm-3 4zm-12-3zm-7 0zm-3 1zm-4 6zm-2-5zm-5-4zm-6 4zm-3-4zm-8 1zm-6 3zm-9-4zm-2 7zm-5-4zm-35 0zm-6-1zm-53 19zm24-2zm6 0zm0 0zm11 4zm0-7zm9 4zm22-7zm12 6zm4 3zm7-2zm5 0zm9-2zm13 4zm0-4zm1-3zm3 6zm28-5zm1 5zm4-6zm3 3zm2 1zm3-2zm0 0zm9 2zm33 14zm-22-4zm-23 4zm-18-6zm-6 8zm-3-8zm-4 0zm-1-2zm-9 10zm-1-6zm-17-4zm-2 3zm-22 3zm-3-3zm-5-2zm-2 9zm-13-2zm-5 1zm-11-3zm-3 4zm-14-7zm-14-3zm-38 21zm18-3zm6-5zm1 7zm15-5zm5 0zm36 0zm12-4zm17 2zm0 9zm9-11zm1 10zm2 1zm0-5zm10 5zm0-6zm4-4zm15 0zm4 8zm6-8zm9 9zm6-1zm4-7zm1 6zm1-4zm1 5zm9-5zm3 5zm6-4zm13 1zm-7 12zm-25-2zm-7 6zm-7-6zm-7 0zm-36-3zm-17 4zm-8-3zm-1 4zm-10 4zm-2-9zm-21 7zm-9 3zm-2-7zm-19 7zm-6-7zm13 14zm13-5zm7 3zm3-1zm3 1zm29 7zm3-4zm1 0zm21-2zm13-2zm3 2zm1-4zm6 2zm12 2zm8 3zm4-2zm67-6zm10 5zm-46 17zm-20-4zm-2-4zm-14 1zm-2 3zm-2 1zm-3-5zm-19 8zm-12-1zm-5-7zm-5-1zm-3 9zm-26 0zm-1-6zm-4-2zm-21 5zm-2 2zm-2 0zm-1-8zm-26 4zm-32-5zm23 17zm6 2zm19-2zm7-3zm14 9zm10-1zm15-6zm3 0zm11 5zm17-1zm1-3zm1 0zm3-5zm8 8zm5-4zm1 7zm4-1zm4-8zm13-2zm6 6zm3 5zm32-11zm-12 15zm-19 2zm-2-4zm-10 3zm-7 7zm-23-3zm-20-5zm-4-2zm-2 5zm-9-6zm-6 7zm-3 1zm-2 0zm0-2zm-12 0zm-3-5zm-7 7zm-2 1zm-11-1zm-2-7zm-8 1zm-2 0zm0 9zm-39-7zm10 13zm26-3zm14 0zm3 2zm4-1zm19 0zm6 2zm1 3zm2-3zm9 4zm1-4zm11 0zm9 5zm6-9zm4 7zm1-5zm5-3zm5 4zm2 6zm4-8zm1 8zm1-7zm1 7zm6-8zm2-1zm43 6zm29-6zm2 10zm-55 2zm-1-1zm-9 8zm-2 1zm-11-5zm0 4zm-8-3zm-8 0zm-4-5zm-16 0zm-1 1zm-1 5zm-6 5zm-12-10zm-5 7zm-6-8zm-20 10zm-11-4zm-10-3zm-43 18zm19-6zm8 3zm17-6zm2 8zm12-4zm4 1zm2 1zm13-6zm1 2zm7-1zm2 6zm5-4zm2-1zm2 1zm4-3zm1 7zm4 0zm8-2zm4 6zm4-3zm3 0zm4 2zm4-6zm14 4zm2-5zm0 7zm5-2zm11-1zm8-3zm2 0zm10-2zm19 10zm-7 10zm-1-2zm-22-2zm-2-1zm-4 0zm-1 1zm-3-6zm-1 1zm-4 7zm0-8zm-11 9zm-12-9zm-6 3zm-8 8zm-13-8zm-16-3zm-5 6zm-7 5zm-11-1zm-1-9zm-15 6zm-5 1zm0-7zm-3 4zm-37-1zm-15-3zm-3 11zm18 2zm12 3zm4 4zm2-1zm18 3zm1-4zm29-7zm1 4zm5-4zm10 0zm16 1zm2 6zm2 1zm5-5zm1-1zm2-1zm11-1zm2 0zm12 8zm4 3zm3 0zm1-1zm12-10zm9 5zm18 18zm-41-10zm-10 3zm-1-2zm-6-1zm-13 6zm-1-5zm-1 4zm-8 1zm-16-4zm-7 1zm-16-4zm-2 8zm-10 0zm-14-8zm38 21zm0-4zm11 6zm7-6zm0-3zm12 8zm13-6zm13-4zm4 0zm7 11zm4-8zm4 3zm8 5zm7-10zm-5 15zm-3-3zm-27 4zm-6 4zm-7-8zm-8 8zm0 0zm-3-3zm-5-6zm-6 6zm-5-3zm32 9zm7 10zm29-9zm-6 17zm-33 1zm-8-3zm54 8z"/>
<path id="g2_2" d="M417 130zm20 13zm-30-8zm-4 16zm22-2zm5 1zm8 5zm4 4zm-3-3zm0 8zm-66 7zm55 6zm16-3zm1-2zm-2 14zm-92 9zm43 0zm1-3zm36 9zm2-2zm9-4zm0-1zm16 11zm-2 5zm-4 0zm-11 3zm0-9zm-14 0zm-15 5zm-2 5zm-10-5zm-19 0zm40 11zm1-1zm20 2zm0 5zm1-8zm1 0zm10 7zm16-5zm11 9zm-12 9zm-20-10zm-5 10zm-22-3zm-1-2zm-3-4zm-45 5zm27 10zm22 5zm8-1zm9-5zm2 6zm2-3zm7 0zm0 4zm4-7zm2 8zm0-5zm0-5zm5-1zm7 3zm10 2zm1-1zm5 4zm1 2zm1-1zm3 0zm29 12zm-9 1zm0-6zm-8 5zm-3-5zm-15 7zm-10-9zm-7-2zm-11 4zm-24 7zm-18-6zm-2-5zm-1 7zm-15-6zm-66 11zm36 5zm26-5zm7 1zm7 4zm15-3zm8 4zm4 3zm5-8zm24 8zm2-5zm3 2zm5 0zm12 1zm1 3zm14-6zm29 5zm5 10zm-9-5zm-7 4zm-34-4zm-4 2zm-3 1zm-6-3zm-5 9zm-11-3zm-13-6zm-8 2zm-11 5zm-6 1zm-3-9zm-32 5zm-4 16zm3-6zm3 7zm20-5zm19-4zm3 7zm19-5zm16 2zm6-5zm3 1zm5 8zm3-4zm5 1zm9-5zm7 7zm23 2zm10-11zm15 10zm32 3zm-41 10zm-3-3zm-2-1zm-7 1zm0-8zm-3 11zm-15-2zm-17-8zm-8 10zm-4-4zm-16 2zm-10 0zm-1 1zm-8-8zm0 9zm-1-1zm-2-10zm0 2zm-14 2zm-2-1zm-16 1zm-44 2zm-35 14zm38-2zm11-3zm6 4zm11 4zm9-11zm8 7zm8 0zm1-3zm1-3zm4 9zm23-10zm5 10zm41-4zm21-6zm3 6zm13 0zm3-2zm23 4zm8-8zm-27 14zm-7 9zm-4-8zm-3 1zm-4 2zm-7 1zm-6 3zm-6-10zm-10 4zm-7 0zm0-4zm-15 6zm-4-4zm-4 0zm-10 1zm-3 5zm-23 0zm-4 3zm-17-10zm-15 3zm-1 0zm-20-4zm-4 23zm19-1zm57-7zm21-2zm5 6zm16 4zm10-1zm2-1zm11 1zm3-7zm1 1zm2 4zm1 0zm17-4zm41 2zm-4 11zm-37 0zm-9 1zm-1 1zm-15-1zm-1-1zm-19 6zm-1-1zm0-9zm-13 2zm-17 4zm-15-3zm-2-4zm-2 3zm-6 8zm-7-4zm0-4zm-2-3zm-23 7zm-1-1zm-31 4zm-20-1zm14 5zm11 0zm3 6zm1-2zm9 2zm4-2zm2-1zm0-2zm9-2zm5 9zm17-4zm2-2zm18 3zm1 3zm2-7zm5-1zm2 3zm14 4zm9-2zm6-4zm1 7zm10-3zm8 0zm10-3zm15 5zm32-9zm-9 19zm-9-1zm-33 1zm-2-4zm-11 5zm-15-8zm-4 0zm-2 6zm0-1zm-1 6zm-5-4zm-1 0zm-16-6zm-2 2zm-16 5zm0 0zm0-5zm-2-2zm-1 2zm-19 8zm-1 0zm-6-10zm-9 5zm-1 2zm0-5zm0 1zm-7 5zm-7-7zm-2-1zm-2 10zm31 12zm3-3zm3 3zm11-2zm7-3zm2-5zm13 10zm2-11zm1 7zm1-5zm4 2zm1 0zm7 3zm4 4zm21-8zm0 0zm31 5zm23 6zm-25 9zm-19-10zm-4 10zm-5-2zm-2-4zm-10 5zm-6 0zm-8-1zm-9-3zm-9 1zm0 0zm-5-7zm-15 3zm-4 7zm-11-8zm-6 9zm-10-6zm-1 5zm-3-5zm-2 2zm-8 1zm-26-3zm-9 0zm-7 8zm37 1zm5 8zm3-8zm13 3zm29-3zm6 7zm1-4zm3 5zm0-5zm5-3zm5 9zm3-11zm4 0zm2 0zm8 4zm7 7zm4-6zm12 2zm2 3zm5 1zm5-3zm4-7zm3 7zm16 2zm6 4zm-6 2zm-12-3zm-22 5zm0-1zm-8 6zm-10-1zm-11-8zm0 3zm-4-2zm-11-2zm-5 6zm-3-7zm-1 9zm0-1zm-8-8zm-1 9zm-5-2zm-12 2zm-12-3zm-2-3zm-8 0zm-18 8zm-14-2zm-59 5zm47 9zm33-1zm1-8zm18 3zm2 2zm11-1zm7 0zm17-2zm2 3zm12-1zm3-4zm10-1zm5 0zm6 10zm1-8zm3-3zm7 7zm2 0zm13 3zm6-2zm4-4zm1-3zm6-1zm8 6zm5-5zm2 2zm-29 20zm-2-2zm-6-3zm0-6zm-3 3zm0 0zm-8 4zm-24 2zm-11 2zm-3-11zm-27 6zm-4 4zm-27-3zm-8-1zm-8 4zm-6-3zm-16-4zm-9 20zm5-3zm1 3zm17-3zm11 3zm12 0zm1-1zm10-9zm5 5zm12-4zm5 6zm12 0zm2 3zm15-2zm5-4zm4 2zm16 4zm9-9zm12 6zm6 1zm7 0zm15-2zm-35 10zm-3 2zm-5 2zm-14-4zm-10-4zm-11 9zm-9-10zm-14 4zm-2-2zm-4-1zm-2 2zm0 1zm-6 6zm-8-7zm-17-2zm-4 4zm-28-1zm-25 18zm49-6zm12-3zm4 3zm2 3zm9-3zm3 7zm9-2zm1-7zm5 7zm3-7zm1 2zm3 5zm1-7zm9 2zm16 4zm3-4zm5-2zm12 2zm1-2zm17 0zm2 4zm6-3zm35 7zm-9 6zm-21 2zm-20-2zm-9 6zm-17-5zm-1 5zm-14-8zm-17 7zm-6-7zm-1 0zm-7 3zm-1-1zm-1 7zm-13-10zm-2 0zm-15-1zm-4 4zm-50-4zm73 13zm6 0zm1 1zm18 4zm23-6zm7 1zm26 4zm1 3zm7-3zm2-5zm1 3zm1 7zm-3 8zm-5 5zm-11-2zm-1-8zm-5 9zm-15 1zm-13-5zm-7-4zm-5 2zm-16 0zm36 9zm9 6zm53 6zm-3 7zm-1-7zm-17 8zm-2-6zm-30 0zm32 13z"/>
<path id="g2_3" d="M400 149zm33 0zm20-2zm4 10zm-16 9zm-23-7zm-103-3zm113 18zm5 3zm11-2zm8 4zm-4 1zm-22 9zm-42-5zm-15 14zm46-5zm15 6zm4 0zm2-1zm4-2zm3 3zm3-4zm5 0zm4 2zm4 14zm-8 1zm-3 1zm-14-8zm-9 7zm-5-5zm-2-3zm-1 5zm-8-4zm-6 2zm-9 3zm-5 3zm27 4zm4 0zm2 5zm12-1zm2 1zm2-6zm5 2zm2 7zm10-6zm9 1zm2-4zm2 3zm0 9zm-22 1zm-1 2zm-12-2zm-18 3zm-15 1zm-17 10zm8 7zm5-4zm10-2zm38 2zm39 5zm0-3zm4-3zm6 5zm4 1zm-9 8zm0-4zm-4 1zm-29 1zm-10-1zm-10-1zm-14 3zm-23-1zm-1 5zm-6-1zm-4-9zm-7 1zm-50 16zm51 6zm7-5zm14-4zm27 7zm1-4zm1 5zm1-8zm2 2zm12 4zm3 3zm7-4zm7-3zm0-4zm3 5zm12 0zm13-4zm16 1zm0 7zm3-7zm6 4zm18 5zm1 4zm-7-2zm-3 3zm-21 0zm-5-4zm-2 6zm-8-4zm-3 9zm-3 0zm-36-9zm-15 0zm-3 4zm-15-5zm-1 9zm-7-10zm-45 4zm9 14zm22-5zm4 0zm12 3zm8 6zm1-8zm13 3zm2 6zm1 0zm15-1zm4-3zm6 0zm60-2zm36 4zm-17 9zm-5-3zm-9 3zm-27-5zm-5 2zm-23 4zm-18-5zm-11 0zm-2 1zm-1-2zm-7 9zm-26-1zm-40 1zm-30 3zm50 7zm28-7zm10-1zm1 6zm25-4zm15 6zm8 3zm4-1zm0-2zm6-8zm28 2zm2 8zm10 1zm4-7zm13 7zm9-11zm7 7zm5 9zm-8-1zm-12-2zm-20 6zm-17 0zm-4 4zm-15-9zm-2 7zm-13-5zm-6 1zm-1 3zm0-4zm-14 6zm-3-5zm-11-5zm-1 0zm-1 9zm-33 1zm-1 1zm-19-1zm-11 1zm5 4zm25-1zm36 1zm4 5zm6 0zm46-8zm34 1zm16 19zm-20-6zm-1-2zm-20 9zm-17-1zm-2-8zm-6 2zm-18 5zm-1-7zm-10 9zm-26-8zm-2 3zm-5 7zm-6-2zm-8-8zm-15 7zm-12 12zm5-4zm13 0zm13 0zm9-4zm6 7zm9 4zm2-11zm9 1zm6 1zm5 4zm21-5zm19 2zm0-3zm23 1zm21 10zm-18 10zm-6 0zm-2-4zm0 2zm-1-2zm0-2zm-11 0zm-3 6zm-7-3zm0-3zm-31 5zm-2-8zm-3 5zm-21 0zm-2 2zm-106 7zm43 5zm18 4zm22-8zm2-1zm33 8zm3-10zm14 8zm16 3zm6-1zm20 0zm25 12zm-5-4zm-6-4zm-21-2zm-11 11zm-5 0zm-2-6zm-3 3zm-6-6zm0 0zm-1 1zm-3 5zm-2-4zm-15 4zm-6 3zm-17-11zm0 4zm-4 1zm0 4zm-1-1zm-2 0zm-18 2zm-61 0zm-23 12zm26-4zm20 0zm1-6zm17 7zm9-4zm15 3zm7-6zm2 4zm1 6zm10-7zm16 0zm10 1zm4 4zm4-2zm14 0zm10 0zm14-3zm25 4zm7-3zm-8 15zm-6 0zm-1 2zm-2 1zm-1 0zm-5-3zm-7 1zm-23 1zm-6 1zm-9-6zm-2 5zm-9-9zm-27 3zm-9 5zm-4-3zm-3 6zm-1-2zm-7-9zm-1 3zm-12-3zm-10 2zm-31 6zm-4 0zm-5 8zm22-1zm11 6zm56-2zm28 0zm10 3zm9-10zm2 7zm4 4zm1-7zm6 0zm22-3zm2 6zm6 0zm6 1zm2-5zm0 17zm-16-6zm-3 0zm-20 8zm-22-1zm-15-7zm-18 1zm-11-3zm-10 4zm0 0zm-8 7zm-17 0zm-9-6zm-4 3zm-2 3zm-53-8zm19 11zm12 6zm29-7zm0 1zm2 5zm9 4zm4 0zm9-11zm0 10zm21-4zm9 0zm11 0zm35-3zm54 7zm8 3zm-64 2zm-16 4zm-1-1zm-30-2zm-27 5zm-2-7zm-38 4zm-13-2zm-1 7zm-15 9zm17-2zm24-6zm7 3zm12 5zm1-3zm9-4zm35 2zm3-2zm10 2zm9-1zm36 2zm0 6zm0-9zm2 7zm0-5zm3 7zm10-6zm-4 17zm-3-8zm-22 2zm-3 4zm-6 0zm-21-6zm-1 0zm0 6zm-3-7zm-2 4zm-20-4zm-25 10zm-3-1zm-1-7zm-5 0zm-1 10zm40 8zm7-2zm12-2zm0-2zm2 4zm1-5zm3 2zm0 3zm5-3zm1 1zm20-3zm19 6zm12 7zm-6-1zm-13 3zm-10 3zm-3 0zm-34-7zm-4 11zm-3-9zm27 16zm15-2zm8 5zm7-7zm8 7zm5-1zm13-1zm-25 13zm-18 1zm-3-7zm-16 8z"/>
<path id="g2_4" d="M393 154zm42-7zm11 7zm-16 3zm-51 5zm-23 8zm20 6zm42-7zm16 6zm11 10zm-8 1zm-4-5zm-7 17zm16 1zm13-4zm6-2zm0 17zm-8 3zm-48-3zm-67 8zm72 7zm8-5zm14 7zm20-7zm23 12zm-14 4zm0-1zm-11-2zm-4-4zm-11 4zm-31 18zm7-3zm22 1zm6-7zm9 6zm10-1zm6-6zm1 6zm7 1zm6-6zm11 3zm0 1zm-2 6zm-3 2zm-30 8zm-11-6zm-2-1zm-28 3zm-40 8zm81 6zm45 3zm0-1zm4 1zm9-8zm5 3zm0 3zm-14 6zm-35 4zm-37-2zm-2 4zm-18-2zm-16 4zm-4 11zm9-1zm17-3zm18-5zm9 2zm13-1zm4 1zm11-2zm18-1zm1 4zm14-1zm1 4zm26 16zm-6-1zm-19-8zm-11 9zm-12-8zm-5-1zm-18 0zm-3 4zm-30-3zm-1 1zm0-3zm-13 5zm-2-1zm-7-4zm-2 10zm-1-5zm-2 5zm0-9zm-9 2zm4 19zm26-5zm34-3zm8-1zm9-1zm3 9zm1-5zm13 2zm8 0zm13-2zm11-5zm19 13zm-12-1zm-9 2zm-8 7zm-14-5zm-1 5zm-13-9zm-2 10zm-2-9zm-11 3zm-16 5zm-9-7zm-3 3zm-4-3zm-12 7zm-2 1zm-1-1zm-13-7zm-7 5zm-10-4zm-4 7zm-26-10zm36 20zm21 3zm29-4zm21-2zm10 0zm19-1zm3 3zm21-5zm-16 11zm-60 3zm-4 1zm-4-1zm-11 7zm-13-10zm-29 2zm-7 14zm34 5zm5-1zm0 2zm39-1zm3 0zm19-5zm21 3zm13-4zm13-4zm10 9zm8 10zm-69-7zm-3 2zm-5 5zm-2 1zm-17-7zm-6 1zm-9 5zm-6-2zm-5-5zm-2 5zm-16 4zm-44-9zm-35 4zm55 15zm18-6zm5 2zm2 7zm24-6zm6-3zm12 2zm16 0zm15 5zm2 2zm12-9zm24 10zm5-6zm8-3zm26 21zm0-9zm-41 2zm-30-2zm-27 0zm-10 5zm-6-1zm-20-4zm0-2zm-18 8zm-22 1zm-8-5zm-7-2zm-1 0zm0 4zm-14-1zm14 15zm9-4zm17 6zm24-10zm1 1zm3 6zm1 3zm21-10zm37 11zm4-6zm32 4zm2-5zm11 1zm7 0zm-5 11zm-38-1zm-32-1zm0 6zm-9-7zm-19 10zm-5-11zm-19 3zm-9 3zm-20-3zm-7 5zm-3-3zm-22 15zm16 1zm40-4zm1-3zm0 9zm5-11zm9 0zm28 2zm13 9zm14-11zm22 4zm0 1zm80 17zm-77-1zm-17-4zm0-3zm-2 3zm-15 6zm-19-10zm-16 5zm-3 4zm-16-3zm-15-7zm-36 2zm-26 5zm-38 5zm54 0zm18 3zm1-2zm14 6zm8-2zm8 4zm44 1zm1-9zm9 3zm1-2zm5-1zm8 2zm17 6zm7-2zm16-4zm4 3zm27 11zm-6 1zm-1 3zm-14-6zm0 3zm-31-4zm-2 5zm-5-7zm-17 11zm-13-10zm-2 9zm-5-6zm-1 7zm-20-2zm-21 1zm-7-9zm-62 0zm-5 6zm-3 5zm1 4zm34 0zm13 6zm2 1zm13 0zm1-8zm9 0zm14 6zm13-6zm3 4zm4-1zm8 4zm4-7zm1 6zm20-3zm15-1zm20-4zm6-1zm35 12zm-47 6zm-10-2zm-65-3zm-5 3zm-1 6zm-23-9zm-4 3zm-10 1zm80 8zm27-1zm-24 14zm-13 5zm-3 2zm-5-8zm-1 8zm-18-5zm12 8zm9 7zm25-2zm3-2zm15 18zm-7-8zm-9-1zm-4 2zm-2-1z"/>
<path id="g2_5" d="M373 119zm60 21zm-18 12zm32-8zm-8 12zm-6 7zm0 2zm-5 0zm14 14zm3-11zm2 5zm4-5zm5 17zm-15-5zm-5 10zm-5 1zm-12-4zm0 0zm-47 0zm-16 2zm11 9zm36-6zm7 9zm12 2zm4-10zm4 1zm31 0zm-20 21zm-9-3zm6 11zm4 3zm31-2zm-3 15zm-2-6zm-19 0zm-16 3zm-12-8zm-1 4zm-18 7zm34 1zm13 0zm2 7zm0-1zm50 14zm-11-5zm-3 0zm-7 0zm-20 4zm-7-2zm-25-4zm0-1zm-8 0zm-5 10zm-1-6zm-20-2zm0-2zm-8 0zm-28 18zm47 5zm15-3zm23-4zm14 1zm27 0zm4-5zm32 19zm-35-1zm-3 1zm-9-3zm-4-1zm-8 7zm-15-4zm-51 11zm11 4zm3-2zm4 2zm5-6zm3 0zm4 4zm18-7zm2 6zm1 1zm10-1zm6 1zm3 3zm1-10zm7 8zm20-5zm4-3zm14 23zm-35-2zm-1 2zm-6-2zm-8 2zm-3 0zm-13-7zm-17 1zm-13 2zm0-3zm-22 3zm-32-1zm18 12zm71 2zm6 3zm5-9zm30 4zm10 2zm34-2zm21-6zm-22 20zm-68-7zm-3 8zm-17-1zm-13-6zm-10 5zm-27 0zm-5 4zm-39-5zm19 12zm14-2zm5-2zm17 4zm5 0zm16-4zm0 9zm26-3zm2 0zm8 1zm6 0zm28-4zm3 3zm2-4zm54 1zm8 8zm-36 8zm-9-8zm-43 7zm-8-2zm-12-6zm-12 0zm-7 11zm-7-5zm-5 5zm-9-9zm-6-1zm-65 1zm5 20zm36-1zm27-4zm3-2zm10 6zm6-8zm1 6zm29-2zm0-4zm49 12zm-11 2zm-42 3zm-89 1zm-25-3zm51 17zm1-5zm32 1zm4 5zm28-1zm5-9zm16 3zm56 7zm-49 2zm-16 3zm-57 7zm-16-2zm-7 1zm-3 0zm-41 6zm21-2zm8 0zm51-1zm38 4zm37 3zm35 4zm-34 6zm-5 2zm-1 1zm-6-7zm-4 0zm-8 4zm-19 5zm-4 0zm-14-2zm-3-3zm-32 0zm-11-4zm-48 15zm39-1zm45-1zm1 8zm2 1zm8-10zm7 4zm49-4zm54 22zm-38-5zm-26-3zm-20 1zm-38 3zm-1-7zm-24 8zm-7-6zm-12 6zm-11-4zm-35 2zm-41 13zm16-3zm33-3zm17 8zm0 1zm16-3zm2-6zm7 8zm11-8zm24 8zm2-1zm23-2zm1 0zm1-3zm10 4zm2-5zm60 5zm1-2zm-51 11zm-13 0zm-16-1zm-10-2zm-24 7zm-2 2zm-12 1zm-4-4zm-9-3zm-5 7zm-11-7zm-47 6zm14 5zm5-3zm29 11zm2-5zm6-2zm4 0zm10-4zm3 9zm63-3zm-12 10zm-15 2zm-6-5zm-4 6zm-22 1zm-19-5zm-3 2zm14 9zm25 0zm4 7zm7-4zm24 0zm3-4zm62 9zm-78 8zm13 7zm2 0zm14 4zm12-1zm45 8z"/>
<path id="g2_6" d="M374 130zm56 20zm5 3zm11-2zm11 16zm-9 0zm-12 0zm-28-8zm22 12zm7 6zm4-5zm-49 25zm59 2zm15 15zm-14-9zm-22 5zm-5 0zm-21 0zm-26 4zm33 13zm21-1zm18 1zm-10 8zm-4-3zm-19-4zm-7 0zm23 12zm20 0zm14 11zm8-9zm46 16zm-27 1zm-9-7zm-1 3zm-2 1zm-11 0zm-26 1zm-16-1zm-57 19zm43-11zm9 1zm2 5zm16 0zm14 5zm10-9zm42 7zm-26 6zm-10 6zm-2 2zm-74 6zm29-4zm28-1zm39 0zm7 8zm35-6zm-2 10zm-15 10zm-31-6zm0 1zm-17 0zm-3-5zm-20 11zm-1-7zm-7 3zm-15 2zm-2-9zm-22 10zm-19 7zm25-3zm49 6zm35-3zm32-3zm19 5zm21 16zm-15-10zm-20 1zm-15 0zm-27 4zm-43-1zm-38 4zm-29-3zm-17 6zm66 0zm11 7zm61-7zm5 2zm7-1zm1 0zm7 13zm-13 7zm-34 1zm-5-8zm-32 5zm-17-5zm-46 2zm-37-4zm104 14zm43 5zm5-1zm18 5zm43 9zm-34 3zm-12-5zm-30-3zm-6 0zm-9-1zm-1-2zm-9 6zm-5 5zm-9 0zm-7-8zm-44 4zm-7-5zm-6 5zm-7-5zm42 20zm8-8zm44 5zm5 3zm11-10zm37 13zm-16 5zm-16 3zm-2-4zm-20-5zm-32 8zm-5-2zm-12-1zm-10 6zm-18-6zm-27 18zm6-4zm35-4zm3-1zm1 6zm5-2zm55 2zm10-4zm17 4zm15 0zm17-4zm11 6zm13 4zm-37 6zm-13-1zm-29-1zm-2 5zm-2-1zm-72-6zm-4-1zm-19 8zm-19-3zm-1 2zm41 12zm24-10zm2 1zm38 9zm9 1zm56-9zm0 9zm8-4zm-22 12zm-21 4zm-4-9zm-26 0zm-2-2zm-29 11zm-4-1zm-9-3zm-51-3zm-14 3zm-27 3zm25 13zm30-1zm50-10zm13 3zm11 0zm21 1zm34 3zm8 15zm-20-5zm-10-5zm-3 3zm-1 1zm-9-4zm-10 6zm-1-2zm-115 3zm4 7zm44-1zm9 0zm20 10zm5-2zm15 0zm9-6zm14 2zm28-4zm46 20zm-101-5zm-2-3zm-1 6zm-5-5zm-27 0zm-30 7zm-23 2zm42 5zm33 6zm38-10zm7 4zm70 15zm-38-2zm-10 1zm-12-2zm-15-1zm-42-2zm34 18zm5-6zm11 0zm6 3zm58 8zm-28 6z"/>
<path id="g2_7" d="M424 145zm18 10zm-20 3zm-30 13zm39-1zm1 6zm-25 25zm18-8zm19 5zm-16 13zm-18-2zm-20 18zm55-5zm11-6zm12 14zm-11 9zm-18-5zm-5 4zm-17 1zm-2 4zm4 6zm45-9zm14 1zm10 17zm-2 2zm-21-2zm-17-6zm-38 14zm30 6zm36 0zm4 1zm10-6zm5 0zm15-1zm4 14zm-26 1zm-4 4zm-18-3zm-30 1zm-25 0zm15 11zm50 3zm9-1zm9 3zm42-6zm-39 13zm-24-3zm-41 6zm-25-8zm1 14zm6 2zm19-2zm17-2zm9 3zm3-4zm52 2zm43 11zm-64-1zm-24 6zm-5 2zm-77-5zm-42 18zm38 1zm33-1zm31 2zm6-7zm19 0zm0 6zm15-7zm7 3zm6 2zm25-6zm23 4zm2-4zm-4 18zm-17-3zm-19 0zm-25 2zm-14-3zm-16-2zm-58 8zm-2-6zm-11 1zm9 18zm38-11zm74 1zm46 9zm-114 6zm-7 7zm-3-10zm-12 9zm-36 11zm19 0zm18-6zm2 1zm1-3zm14 8zm11 2zm9-9zm3 1zm54 13zm-55 6zm-21-8zm-3 1zm-2 1zm-97 10zm43 3zm12 5zm5-10zm7 0zm14 8zm18-5zm33 1zm57 19zm-1-2zm-41-2zm-9-4zm-8-1zm-6 3zm-2 5zm-18-2zm-26 2zm-2-9zm-25 4zm-7 17zm21 0zm12-7zm32-1zm2 3zm11-4zm34 7zm7 3zm35 10zm-71-8zm-23 4zm-33-3zm-30 1zm-5-2zm9 13zm10 3zm37 6zm19 0zm35 0zm5 0zm20-9zm-30 11zm0 6zm-1-6zm-29 6zm-5-1zm-5-6zm-14 7zm-31 3zm-7-2zm-4-5zm-15 7zm35 5zm28 6zm2-8zm8 9zm13-2zm3-4zm6 17zm-3-5zm-19 1zm-20-5zm-13 1zm-15-1zm-8 10zm-60-5zm99 11zm32 0zm21-2zm9 9zm23-3zm7 7zm-27-1zm-40 8zm22 4zm-14 10z"/>
<path id="g2_8" d="M422 134zm19 29zm-8-4zm-12 7zm-47 8zm72 7zm-60 20zm59-7zm-6 16zm-10 0zm-2-3zm-28 3zm10 10zm4 2zm23 5zm8-2zm11-6zm6 8zm2 9zm-51-2zm-9-6zm-39 0zm0 16zm111 2zm11 5zm22 9zm-165 10zm75 2zm11-5zm5 0zm24 7zm12-7zm32-2zm29 11zm-15 1zm-31 4zm-24 6zm-48-4zm-12 0zm-11-6zm-9 10zm56 11zm7-3zm62-5zm25 6zm17-2zm17 15zm-18-3zm-110-5zm-53 7zm-11 0zm-6 11zm18-2zm21-3zm6 7zm22-5zm1-1zm28 0zm34 2zm31 13zm-6 5zm-32-8zm-18-3zm-2 10zm-21-1zm-15 1zm-16-10zm-14 7zm-22 4zm-27 0zm48 5zm2 2zm34-4zm3-1zm40 7zm61 10zm-1 4zm-3 0zm-100-3zm-4-4zm-43 0zm-13 20zm29-2zm71-2zm22-3zm14 15zm-48 1zm-13 2zm-43-4zm-36-6zm-9 23zm17-5zm23 0zm7-4zm33 2zm14 5zm18-3zm1-3zm40-3zm-16 12zm-21 9zm-4-4zm-24-5zm-26 7zm-5-2zm-11 4zm-8-7zm-4-2zm-41 11zm6 11zm217 10zm-77 3zm-55-3zm-24-6zm-32-1zm-19 14zm28 2zm92 5zm17 0zm-10 7zm-15 2zm-15 4zm-78-7zm-48 0zm-17-1zm4 12zm38 1zm41 3zm4 2zm35-6zm10 7zm9 1zm19-1zm7 3zm-42 1zm-1 6zm-113-7zm-19 8zm-20-2zm38 12zm38 1zm11 1zm82 1zm18 7zm-78-3zm-54-1zm75 16zm37 8zm-41 6zm-24-2zm80 24z"/>
<path id="g2_9" d="M436 148zm3 17zm-12-6zm-32 6zm42 11zm-34 7zm-1 13zm56 8zm-28 17zm10 2zm21-5zm-19 14zm-25 3zm-25 12zm30-1zm50 3zm23 5zm-55 2zm-45 6zm75 7zm31 6zm62 11zm-52-3zm-23-1zm-37-6zm-25 2zm-4 7zm7 9zm27-4zm39 1zm53 14zm-173 2zm16 13zm10-7zm50 4zm108 13zm-103-4zm-78 6zm-16 4zm47 2zm67 7zm78-7zm-84 20zm-63-2zm-70-6zm150 13zm10 19zm-35-2zm-24 3zm-21 7zm0-4zm67 2zm78 0zm-117 15zm-23 2zm-4-7zm-12 9zm-12-4zm-11-6zm-21 20zm28-8zm96 4zm-24 16zm-66-6zm-68 19zm47 0zm21-5zm11 5zm11-8zm78 6zm17 13zm-27 0zm-17-5zm-84 5zm-21-4zm23 13zm46-4zm48 18zm-118 12zm61-5zm24 5zm26-1zm-46 18zm64 5zm16 3zm-37 9zm-13-5zm-18 10zm23 8z"/>
<path id="g2_10" d="M439 152zm-30 47zm32 16zm-34-2zm9 11zm3-5zm47 17zm-5 0zm-50 5zm84 20zm-29 2zm-12-11zm-16 6zm-35-1zm43 10zm2 2zm63 0zm45 12zm-48 1zm-14-2zm-12-4zm-28 9zm-29-9zm-43 3zm17 15zm55-6zm1 3zm47 2zm2-4zm-21 14zm-12-2zm-35 4zm-7 3zm-14-7zm49 15zm20-3zm28 11zm-5 4zm-21 1zm-11 1zm-13-5zm-58 18zm8-3zm18 7zm65-9zm-5 18zm-32 1zm-13 1zm-150 10zm101-8zm10 7zm10 2zm110-4zm13 18zm-74-10zm-81 10zm0-3zm-9 8zm5 5zm10-5zm17-1zm46-1zm7 7zm12 13zm-37-1zm-35 0zm-72-9zm50 18zm67 2zm128-5zm-59 11zm-29 9zm-24-11zm-3 11zm-14-9zm-20 4zm-29 2zm-12 10zm22-6zm8 1zm93 3zm9 18zm-2-2zm-106-2zm-2-5zm-23 10zm-3-1zm-4 1zm-26 8zm24-5zm7 9zm25-9zm15 4zm6-2zm34 8zm-53 8zm-2-8zm-83 4zm154 8zm49 14zm-20 9zm-44-10zm-16 6zm-78 2zm26 5zm45 5zm59 4zm19 11zm-28-4zm-1-3zm-36 5zm-21 0zm15 8z"/>
<path id="g2_11" d="M420 179zm32 2zm-16 7zm5 17zm-8 8zm39 21zm-11 3zm-15-7zm-13 1zm-23 14zm27 9zm-11 2zm0 0zm-25 19zm43-10zm51 1zm-2 10zm-50 1zm0 12zm5 2zm20 8zm34-2zm27-3zm32 2zm-90 4zm35 16zm36-3zm-14 17zm-13 4zm-50-8zm0 3zm-9 4zm-12-1zm-18 2zm-10-5zm-33 3zm-29 2zm24 5zm61-1zm24 1zm87 17zm-48 1zm-20-1zm-13 3zm-52-10zm-5 6zm-3-3zm-30 6zm-32 8zm37 1zm84-6zm31 1zm-26 17zm-22 4zm-6-6zm-76-1zm-8 11zm194 8zm-43 3zm-25-1zm-48 8zm-56-3zm-31 0zm29 10zm5 1zm45 6zm7 11zm-34-3zm-8-1zm-75-6zm24 23zm11-2zm1-3zm27 0zm11-3zm4 5zm13-3zm33-5zm48 0zm17 5zm-166 10zm37 16zm20 4zm65-5zm26 11zm-22-2zm-44 0zm-4 1zm0 2zm-66 2zm1 13zm12-6zm79 2zm37-3zm50 5zm-141 13zm-10 1zm-3 0zm-14-8zm32 18zm12-3zm80 2zm-15 6zm-14 1zm-35 5zm9 11zm28 4z"/>
<path id="g3_0" d="M507 268zm20 15zm9 16zm4-11zm14 3zm1 0zm12-1zm6 9zm34 1zm-11 5zm-5 4zm-13-5zm0-1zm-5 2zm-12-2zm-3 8zm-8-8zm-4-3zm-27 9zm-23-4zm42 8zm1-1zm3 4zm12 4zm6-1zm2-5zm2 6zm4-6zm11 9zm16-8zm1 1zm2-1zm0 5zm9-4zm4 6zm20 0zm9-8zm3 12zm-11-2zm0 6zm0-4zm-21 3zm-2 4zm-3-2zm-1 3zm-28-5zm-3-3zm-12 8zm-3-4zm-8 0zm-37-2zm-12 15zm27 2zm18-9zm5 7zm0 3zm9-3zm1-3zm0 0zm2 3zm3-7zm5 5zm9-3zm4 8zm3-6zm11 7zm2-6zm9-1zm0 7zm8-9zm3 8zm0-3zm17-4zm14 9zm-4 5zm-4-5zm-6 5zm-10 0zm-2 2zm-3-1zm-10 5zm-4-11zm-2 5zm-14-1zm-2-3zm-2 3zm-2 1zm-1-2zm0 1zm0-1zm-1 5zm-5-6zm-6-1zm-14 10zm-3-4zm-9 3zm-26-4zm-22 17zm2-7zm44-1zm2 5zm1-7zm37 5zm5 4zm3-10zm11 11zm2-8zm6-1zm1 4zm4 5zm11 0zm6-5zm9 0zm2-6zm2 0zm2 4zm14-1zm26 18zm-2 2zm-17-2zm-5-1zm-13 2zm-7-6zm-3 3zm0-6zm-1 5zm-3 2zm-2-8zm-3 7zm-16 4zm-2 0zm-6-4zm-1 1zm-6-2zm-1-3zm-8 8zm-4-6zm-12 6zm-10-6zm-3-5zm-4 8zm-11-8zm-18 1zm-4 10zm-25 0zm-16-1zm13 6zm34-3zm3 4zm2 0zm16-1zm8 7zm15-1zm1 0zm7-8zm2 4zm16 1zm4-6zm11 3zm5 3zm1 4zm3-11zm5 9zm4-9zm4 2zm1-2zm2 6zm13 0zm2 4zm2-10zm10 3zm2 7zm9-9zm3-1zm9 7zm9 1zm8-8zm4 16zm-8-2zm0 0zm0 0zm-2 0zm-9 2zm-1 2zm0 5zm-15-11zm-13 3zm-1 7zm-3-2zm-1 2zm-7-1zm-4 0zm-22-9zm-20 11zm-2-11zm-2 2zm-1-1zm-2 5zm-8 5zm-17-6zm-3 4zm-1-8zm-25 3zm-40 8zm8 4zm17 2zm1-3zm3 0zm6-1zm0 5zm10-6zm7 0zm13 10zm1-9zm5 8zm0-3zm1-4zm2 2zm10 4zm0-1zm4 1zm3-8zm4-1zm4 5zm6 1zm1 1zm8 0zm0-4zm9 3zm1-1zm1 0zm4-4zm5 2zm1 7zm3 0zm1-3zm0-6zm2 7zm4 3zm2 0zm8-8zm2-3zm4 6zm1 0zm5 0zm14 2zm1-3zm2 2zm7 2zm9 2zm0 11zm0-2zm-4 0zm-3 3zm-6-4zm-2 3zm-2-9zm-1 6zm-19-3zm-1-1zm-2 7zm-3-5zm-2 0zm-5 4zm-13-4zm-23 1zm-7 2zm-15-7zm-1 1zm-7 6zm-4-6zm-4 2zm0 6zm-4-2zm-6-7zm-4 5zm-12-5zm-1 6zm-1-3zm0 6zm-22-2zm-5 2zm-2-3zm-16-3zm-1 0zm-5 4zm-6-7zm-1 1zm-25 8zm24 13zm1-6zm1 1zm1-2zm6-1zm4 8zm5-11zm13 4zm19-2zm2 7zm3-8zm1 5zm20 2zm7 0zm7-6zm1 8zm11-3zm2 0zm4-1zm1-1zm0 5zm2-6zm8-1zm0 8zm5-4zm5-1zm13-5zm4 8zm5-4zm14-5zm11 4zm10 2zm0 4zm2-2zm10 2zm2-4zm12 14zm-5 0zm-5 3zm-2-5zm-1 1zm-15-6zm-2 0zm-16-1zm0 3zm-6 4zm-4 3zm-12-8zm-1 1zm-10 0zm-22 8zm-5-4zm-10-4zm-2 4zm-3-7zm-3 9zm-1 1zm-6-9zm-2-1zm-17 10zm-8-1zm-10-9zm-9 8zm-5 1zm-4 0zm-1-6zm-20 7zm-8-7zm-10 3zm-1-2zm-33 17zm29-4zm9 2zm15-6zm0 0zm29 9zm2-9zm5 1zm3-2zm8 2zm4 1zm1 6zm14-2zm1 4zm17-10zm6 8zm3 1zm2 1zm2-10zm0 3zm9 5zm3-9zm3 5zm6 6zm2-9zm3 8zm1-9zm9 6zm2 3zm4-9zm0 9zm15-8zm9 5zm11-6zm4 0zm1 8zm7-6zm3 1zm17 18zm-5-3zm-5 1zm-15-7zm-5 3zm-26 1zm-8-2zm-4 3zm-24 2zm-4-6zm-2 5zm-3 0zm-1-2zm-1 6zm-7-4zm0-4zm-27 0zm-2-3zm-2 8zm-1-8zm-22 6zm-4 1zm-3 3zm-1-2zm-14 0zm-17 1zm-7-8zm-5 5zm-7 5zm13 3zm2 6zm3-3zm6 0zm4 2zm12 2zm3-4zm1-3zm11 8zm13-2zm2 0zm6 1zm3 2zm0-10zm9 7zm2 3zm7-8zm5 2zm1 3zm20-4zm4 4zm9 2zm16-8zm1 4zm5-3zm15 5zm1 2zm9 0zm10-10zm9 1zm2 2zm11 5zm1-6zm4 2zm-2 9zm-7 0zm-16 4zm-1 2zm0-7zm-1 10zm-8-1zm-2-9zm-7 4zm-4 4zm-1 0zm-2 0zm-14-6zm-3 7zm-5-9zm-2 5zm-3 6zm0-8zm-1-3zm-1 5zm-8 4zm-10-2zm-12-5zm-2-1zm-5 3zm-3 4zm-4 2zm-14-6zm-1 1zm0 5zm-1-8zm-5-2zm-3 1zm-3 4zm0 3zm-1-4zm-3 3zm-14 4zm-3-9zm-5 0zm-7 5zm-1 2zm-1-6zm-8 5zm-9 0zm-2-6zm-10 5zm-7 2zm-1 1zm-24-9zm0 19zm5-2zm11 4zm45-7zm1 5zm1-3zm1-2zm8 1zm11-2zm16 4zm9 0zm4 4zm3-3zm5-2zm2 2zm4-2zm4 6zm13-1zm1-4zm1-6zm3 7zm5-3zm2 7zm6-6zm2-5zm13 4zm8-1zm5 7zm2-2zm1 3zm4-3zm12-4zm3 6zm3-2zm1 1zm4 0zm22 4zm-8 0zm-6 6zm0-2zm-4 1zm-9-4zm-3 6zm-3-1zm0-5zm-1-2zm-1 0zm-7 7zm-6-4zm-18 0zm-2 4zm-5-1zm-17-4zm-5 4zm-2 1zm-2-3zm-1 7zm-5-11zm-2 11zm-10-1zm0-5zm-5-5zm-2 11zm-8-11zm-7 10zm-1-4zm-1 1zm-1-4zm-25-1zm-7-2zm-7 3zm-1-3zm-14 7zm-29 2zm1 13zm9-2zm5 0zm16-1zm4 0zm7 2zm3 1zm18 1zm17-3zm7-4zm0 7zm11-2zm18-3zm2 2zm2-5zm11 3zm6 1zm3 1zm27 0zm5-1zm2-2zm2 0zm2-5zm17 2zm9 4zm12-3zm-15 9zm-4 8zm-3 0zm-6-6zm-1 1zm0-2zm-5 1zm-2 6zm-1-7zm-26 8zm-2-4zm-1 6zm-15-8zm-1 1zm-1 4zm-3-1zm-8-4zm-1 6zm-3-3zm-3-3zm-2-1zm-2 1zm-2 3zm-8-5zm-2 7zm-16-6zm-1 1zm-6-2zm-3 0zm0 7zm-1-4zm-12 3zm-16-4zm-1 6zm-12 2zm-1-4zm-16-3zm-12-3zm38 13zm3 0zm12 9zm10-3zm1-6zm6 1zm1 5zm40-6zm1-2zm4 4zm2 3zm1-1zm9-1zm12 0zm2-1zm0 4zm6-5zm1-1zm28 2zm6 4zm1-7zm2 3zm-37 18zm-3-7zm-5 2zm-4 1zm-4-4zm-3 4zm-3 5zm-1-10zm-9 5zm-1 4zm-6 1zm-4-10zm-3 1zm-1 7zm-1-1zm-4-3zm-3-3zm-11-1zm-18-1zm15 20zm12-1zm1-2zm2-3zm16 0zm6 0zm7 1zm14-1zm-34 14z"/>
<path id="g3_1" d="M514 287zm-25-4zm34 12zm1-4zm28 6zm9 2zm3-10zm21 17zm-11-2zm-1 3zm-6 4zm-1-4zm-32-5zm-11 2zm-59 19zm31-5zm49 3zm19 0zm10-5zm2-1zm2-3zm4 6zm12-1zm9 5zm9-8zm19 9zm3 0zm2 0zm3 8zm-13 2zm0-7zm-1 5zm-9 2zm-3-7zm-10 9zm-11-11zm-12 3zm-3-1zm-9 7zm0-1zm-2-7zm-2 1zm-18 1zm-4-2zm-17 18zm16 3zm11-1zm33-3zm3 2zm9-5zm0 7zm0-5zm4 3zm3 1zm7-7zm9 9zm23-7zm8 4zm4 2zm-7 12zm-16-6zm-8 4zm-19 1zm-4 0zm-4-3zm0 2zm-13 1zm-3-7zm-2 4zm-7 2zm-10 0zm-9-7zm-5 5zm-11 5zm-5-1zm-1-4zm-18 5zm24 10zm12 0zm4 1zm16-6zm4-1zm16 1zm40 7zm5-4zm3-7zm11 11zm13-3zm2-6zm30 12zm-22-2zm-5 7zm-9 3zm-9-2zm-2-5zm-5 4zm-1 3zm-11-3zm-2-1zm-1 2zm-9-2zm-1-1zm-37 3zm-4-6zm-4-1zm-3-1zm-1 11zm-1-11zm-6 8zm-17-5zm-2 0zm-4 8zm-11-9zm-5 9zm-1-7zm-13 11zm28 2zm2-1zm9 0zm0 5zm1 1zm24-6zm8 2zm3-4zm4 2zm4 7zm6-5zm0-1zm0 4zm18-9zm3 7zm12-1zm10-3zm0 6zm0-5zm19 3zm0-4zm4 3zm14 5zm0-6zm1 0zm0 4zm8-4zm1 3zm5 3zm2-10zm0 10zm5-4zm12 11zm-10 4zm-10-6zm-6 4zm-33 2zm-3-1zm-5-2zm-5 0zm-8 2zm-3-2zm0-6zm-9 7zm-3-8zm-12 2zm0 8zm-11-3zm-8-5zm-3 5zm-9-1zm-3-5zm-9 0zm-10 8zm-15-6zm-3 8zm-2-10zm-14 0zm-3 8zm-3 0zm-7-9zm4 15zm11-2zm30 1zm5-1zm2 0zm1 10zm27-5zm0-5zm3 10zm2-6zm6-2zm0 1zm2 6zm9-10zm8 4zm2 5zm9-8zm14 1zm15 6zm0-1zm6 0zm1-3zm7-4zm3 8zm1 2zm13-8zm0 4zm7 0zm1-1zm12 2zm15 1zm4-3zm2-3zm-12 19zm-19 1zm-4-5zm-5-4zm-7 10zm-17-2zm-1-3zm-5 5zm-9-5zm-3 0zm-5 5zm-1-5zm-2 2zm-9 0zm-12-2zm-14-1zm-9-4zm-7 3zm-1-2zm0 5zm0 0zm0 3zm-12 0zm-1-9zm-12 10zm-11-6zm-26-1zm-16-1zm-25 13zm5 2zm6 4zm9-2zm34-2zm5-4zm5 4zm1 4zm2-10zm2 2zm10-2zm1 6zm0 3zm3-9zm2 5zm4-5zm1 8zm2-8zm19 11zm11-6zm4 1zm14-1zm6 5zm1-3zm5 4zm17-5zm1-1zm3 2zm0-6zm17 3zm9 4zm7 2zm1-1zm19-7zm8 10zm-9 6zm-7-1zm-5-4zm-3 7zm-2-6zm-2 4zm-9 1zm-1-1zm-4-6zm-7 10zm-11-9zm-6-1zm-8 10zm-2-3zm-14-7zm-14 0zm-2 7zm-9-6zm-20 8zm-15-8zm-4 10zm-14-9zm-12 3zm-9 0zm-9-4zm-1 10zm-4-10zm-2 1zm-3 1zm11 15zm0-4zm19 3zm13 3zm2-6zm2 2zm4 3zm4-7zm5 5zm11-2zm30 8zm17-4zm17-3zm2-1zm2 4zm7 3zm1-5zm0 6zm11-8zm6 0zm8 2zm0-4zm9 2zm12 4zm12 0zm1 3zm3-1zm-9 9zm-1 4zm-19-7zm-4 1zm-7 5zm-1-2zm-3-7zm-2 9zm-27 2zm-3 0zm-4-10zm-1 3zm-3 6zm-6-1zm-2-1zm-1 2zm-6-4zm-8 2zm-6 3zm-8-10zm-12 9zm-8 1zm-4-7zm-2 4zm-3-3zm-1-5zm-4 1zm-6 2zm-3 3zm0-5zm0 9zm-23-2zm-5-2zm-1-6zm-5 9zm-5-5zm-2 6zm-6 0zm-3-10zm-7 0zm-12 5zm7 14zm74 1zm11 0zm17 1zm1-4zm9-4zm12 9zm2 0zm5 0zm3-1zm4-8zm1 0zm1 5zm5-6zm4 2zm3 3zm16-2zm4 8zm2-1zm1 0zm12-9zm8 0zm4 10zm2-7zm2 5zm7-8zm18-1zm-20 15zm-3 7zm-21-3zm-7-7zm-8 0zm-3 2zm-5 1zm0 8zm-18-9zm-4 5zm-3 1zm-10-6zm-6 0zm-1-2zm-3 10zm-4 1zm-8-3zm-10 1zm-1-1zm-3-3zm-8-3zm-7 6zm-2-8zm-1 8zm-3-5zm0-2zm-1 9zm-3-7zm-18 6zm-5-3zm0 3zm-9-3zm-7 4zm-7-3zm-4 0zm-3 4zm-16-9zm22 20zm31-5zm11 3zm10-7zm22 5zm9-2zm2 5zm23-3zm3-3zm4-1zm6 3zm1 2zm6-5zm30 3zm2 6zm1-6zm12-3zm6 8zm4-6zm3 0zm7-4zm-20 17zm-3 5zm-3-4zm-9-4zm-9-1zm-6 4zm-21 5zm-6-8zm-12 3zm-24 6zm0-7zm-1 7zm-1-9zm-14 0zm-1 4zm-2 3zm-2-5zm-10 3zm-28 2zm-10 2zm0-4zm-10-6zm-33 7zm-1 3zm-14 8zm14-4zm17-2zm6 0zm19-1zm33 6zm10 3zm6-3zm2 3zm6-5zm2 3zm0-7zm3 1zm0 9zm2-8zm0 8zm30 0zm0 0zm1-8zm0 2zm3 6zm14-4zm2-4zm6 6zm0-6zm13 7zm11-5zm0-2zm2-1zm2 4zm5-1zm3 1zm2-4zm-1 16zm-1-5zm-7 4zm-3 3zm-3-2zm-7 4zm-6 2zm-2-3zm-4-4zm-3-3zm0 10zm-2-6zm-2 2zm-15-3zm-3 7zm-19-6zm-5 5zm-8 1zm-12-8zm-4 3zm0-1zm-3 5zm-1-8zm-9 6zm-23-1zm-29 2zm-3-6zm0 1zm-2 10zm5 6zm33 1zm8-4zm1-3zm2 6zm10-4zm3-4zm4 4zm3 0zm3-1zm3 2zm9-1zm4-3zm2 1zm8 6zm4-3zm18-2zm2 7zm0 1zm2-10zm4 0zm6 7zm0-4zm0-4zm2 9zm14-5zm18-4zm4 1zm-12 13zm-20-1zm-20 2zm-17 7zm-12-6zm-5-3zm-9 10zm-12-10zm-5 0zm-3 3zm-14 0zm15 12zm2-3zm3 8zm7 2zm1-7zm7 4zm3-4zm9-2zm0 9zm11-9zm4-1zm5-1zm-38 12zm-5 0zm-2 3zm0 3z"/>
<path id="g3_2" d="M516 263zm7 11zm-10 19zm55 1zm30 10zm-12 4zm-14 1zm-6-2zm-10-7zm-50 21zm1-9zm29 3zm34 3zm2 5zm1 0zm2-3zm17 0zm15-4zm1 3zm23-5zm4 0zm-35 10zm-4 11zm-9-2zm-8-7zm-12 0zm-3 0zm-1 6zm0-6zm-5-2zm-4 8zm0-7zm-41 9zm4 7zm17 5zm7 0zm5-4zm23-2zm3 7zm8-10zm8 4zm3 6zm9-3zm11 3zm11-5zm9-2zm13 7zm26 11zm-12-1zm-1 2zm0-5zm-12 0zm-10 3zm-28-2zm-4-3zm-2 4zm-3 0zm-17 1zm-10 1zm-3-3zm-12 0zm-22-4zm-5 1zm-31 18zm1-1zm10 1zm4-7zm6 8zm5-5zm10 0zm7 1zm13-4zm10 8zm0-2zm10-6zm5-1zm6-2zm17 5zm43 1zm37 2zm-12 15zm-4-10zm-6-1zm-3 9zm-9-3zm-12 4zm-7-7zm-3 5zm-5-6zm-4 5zm-2-4zm-21 2zm-2-2zm-13 8zm-2-1zm-10-4zm-24-4zm-3 0zm-8 5zm-3 2zm-21 6zm37 4zm1 0zm10 2zm1 2zm3-4zm14-2zm3 6zm1-9zm18 8zm3-3zm6 3zm5-1zm1-8zm6 8zm5 2zm6-3zm1-1zm2 1zm15-4zm10-1zm1 4zm3-7zm3 1zm15 4zm0-4zm0-1zm9 3zm14-1zm13 8zm-2 10zm-2 0zm-4 0zm-11-8zm-1 5zm-8 0zm-9-3zm-4 1zm-1-3zm-15 3zm-3 5zm-5 0zm-4-2zm0-4zm-1 4zm-21-2zm-7-3zm-3 4zm-4 0zm-14 5zm-1-3zm-26 3zm-11-8zm-6 9zm0-11zm-4 6zm-2 4zm-4 1zm-25 0zm-3-4zm-12-3zm-7 3zm46 6zm22 4zm1 2zm13-6zm31 0zm26-1zm2 3zm6 1zm0 2zm29-3zm2-1zm2 7zm5-7zm2 6zm1-8zm9 3zm0 2zm14 0zm8 4zm4-7zm3 6zm-6 7zm-24-2zm-12 0zm-13 10zm-1-3zm-2-7zm-1 4zm-3 5zm-15 1zm-9-1zm-2-2zm-3-8zm-11 7zm-1-2zm-13 6zm-4-6zm-11-2zm-10 3zm-11-2zm-15-1zm-13-3zm-2 0zm-9 0zm-8 7zm-9-1zm-16 13zm29 1zm1 0zm18 2zm7-3zm2 4zm1-2zm3-3zm5-1zm2-1zm22 5zm1-3zm0-5zm3 4zm8 5zm16-4zm4 5zm7 0zm35-9zm3 9zm4-6zm0 4zm3-2zm1-2zm13-3zm4 3zm0-5zm1 4zm22-1zm7 5zm-1 7zm-10-2zm-8-1zm-12 9zm-1-8zm-7 9zm-6 1zm-5-11zm-18 3zm-15 0zm-28-3zm-4 1zm-8 4zm-4 6zm-6 0zm-3-10zm-7 6zm-7-7zm-19 7zm-4 3zm-4-10zm-14 4zm-17 0zm-41 0zm-4 13zm15-5zm2 2zm46 4zm1 1zm5-7zm0 11zm5-11zm8 3zm17 0zm2-1zm0 6zm4-1zm10 1zm0 2zm8-3zm5-3zm1 1zm4-5zm3 0zm3 4zm19 7zm13-11zm4 5zm13-1zm17-2zm1 5zm9-1zm1 0zm3-3zm12-3zm5 6zm3 5zm6-3zm-7 5zm-3 5zm-3-1zm-4 1zm-24-3zm-10 0zm-12 1zm-1 6zm-17-7zm-8 1zm-39 2zm-1-1zm0-4zm-1 0zm-4 5zm-6 1zm-15 2zm-3 0zm-1-6zm-9 4zm-1-7zm0 5zm-3 4zm-1-1zm-5 1zm-15-4zm-3 1zm-20 4zm-3-9zm-7 9zm-33-2zm41 9zm29 0zm0-4zm4 7zm6-6zm8 6zm16-2zm5-6zm16 5zm1 4zm2-5zm12 1zm4 6zm7-3zm9-6zm3 9zm31-2zm34-8zm0 1zm5 5zm4-5zm9-2zm4 16zm-9 7zm-7-2zm0-6zm-7 0zm-3-1zm-4 7zm-11 1zm-26-5zm-2 6zm-7-8zm-13 0zm-4-1zm-38 4zm-1-3zm-12 4zm-1 0zm-15 1zm-2-3zm-10 5zm-12-6zm-3 4zm-10 0zm-8-1zm-1 4zm-10-4zm-5-7zm-11 8zm26 11zm2 2zm15-6zm1 8zm39-5zm19 3zm12-9zm4 9zm3-6zm11 4zm0-7zm4 2zm3 9zm12-9zm20 9zm0-1zm1-10zm3 10zm2-10zm6 10zm1-2zm9-4zm5 2zm7 2zm7-2zm2-4zm0 8zm3-3zm2-2zm8-1zm1-3zm5 3zm-10 18zm-2-1zm-10-3zm-12 2zm-4-1zm-11-7zm-8 1zm-7 0zm-17 3zm-2 7zm-6-3zm-4-4zm0-1zm-12 0zm-7 7zm-9-2zm-7-2zm0 5zm-9-3zm-2-2zm-12 5zm-48-4zm-7 4zm0 0zm-4-2zm-14 8zm40-2zm3 6zm2-5zm2 6zm3-2zm4-5zm20 1zm13 4zm18-8zm1 2zm10 5zm5-4zm1-3zm10 8zm10 3zm2-6zm10 6zm20-5zm20-5zm1 6zm3-2zm19-3zm-15 13zm-2 1zm-17 6zm-17-2zm-9-7zm-10 10zm-6-3zm-1-8zm-1 6zm-5 1zm-10 2zm-5-2zm-9 1zm-12 0zm-16 0zm-8 1zm-10-6zm-38 1zm-2 3zm-15 3zm32 2zm4 6zm11 4zm2-4zm5-3zm36 8zm11-1zm3-8zm15 9zm3 0zm3-2zm2-7zm29-2zm7 8zm1-4zm7-2zm1 10zm-18 3zm-5 3zm-32 4zm-5-8zm-3-1zm-1 4zm-4-1zm-4 7zm-9-9zm-25 4zm-6-1zm4 8zm1 3zm14 5zm1 0zm14-5zm25-3zm5 3z"/>
<path id="g3_3" d="M512 284zm6 6zm17 7zm7-3zm27 1zm-4 14zm-28-8zm-1 10zm-22-11zm34 21zm6 1zm6-2zm2 0zm15-3zm4-4zm1 5zm16-1zm28-5zm6 12zm-14 2zm-7 3zm-3 6zm-1-8zm-4 4zm-4 2zm-8 0zm-2-9zm-5 9zm-1-9zm-8 1zm-37 0zm0 11zm27 2zm1 6zm11-8zm1 0zm20 8zm8 2zm3-8zm1 7zm4-5zm1 4zm7 3zm5-6zm17 4zm13 14zm-29-4zm-6 3zm-12-10zm-6 7zm-10-6zm-14 10zm-5-10zm0 0zm-18 7zm-10-2zm-15-6zm-7 10zm-1-6zm-7 2zm-22 8zm14 4zm22 5zm4-4zm2-1zm2-5zm18 8zm10 1zm28-2zm4-8zm25 7zm4 3zm0-5zm13 0zm11 1zm5-1zm4-2zm9 4zm4-3zm1 13zm-19 6zm-12-2zm-35-5zm-15-4zm0 1zm-6 4zm-6 1zm-1-2zm-5 5zm-15 2zm-49 5zm22-2zm12 4zm14-6zm4 4zm2-4zm8 6zm1-3zm13 2zm5 6zm9-1zm27-9zm8 0zm0 10zm5-10zm16 9zm11-7zm7 7zm3-5zm7 1zm11-5zm16 2zm6 20zm0 0zm-7-2zm-31-3zm-9-4zm-1 6zm-3-2zm-7-2zm0 4zm0-5zm-41-1zm-11-1zm-8 9zm-2-7zm-37 6zm-4-5zm-6 5zm-2-7zm-13 1zm-10-3zm-30 23zm4-4zm38-6zm12 0zm8 7zm6 2zm22-8zm2-2zm10 11zm14-1zm3-1zm1-1zm16-2zm14 1zm0 2zm6-8zm6 1zm8-2zm14 0zm13 8zm20 2zm0 3zm-16-1zm-3 8zm-16-7zm-9 0zm-12 3zm-45-3zm-12 2zm-10 8zm-23-9zm-1 2zm-33 7zm-1-5zm-7-5zm-11 4zm-86 0zm111 7zm3 5zm6-4zm1 9zm3-9zm6 7zm5-7zm0 9zm12-5zm2 4zm2-5zm11-4zm0 10zm7-6zm4-4zm21 11zm17-8zm39 8zm3-11zm4 0zm13 4zm9 5zm4 5zm-3-1zm-2-1zm0 6zm-3-1zm-1 0zm-1-3zm-4 0zm-10 0zm-2 1zm-11 0zm-1 0zm-14-2zm-13 7zm-1-6zm-6 0zm-8 9zm-33-4zm-1 4zm-2-10zm-13-1zm-26 0zm-3 1zm-17 9zm-8-10zm-15 11zm0-10zm-42 4zm36 11zm15 4zm22 3zm2 0zm6-2zm7-1zm1 2zm1-10zm16 6zm18 5zm10-1zm0-10zm14 8zm18 1zm1-6zm17 4zm2 4zm4-5zm9-5zm4-1zm7 11zm3-2zm2-6zm9 5zm21 12zm-21 3zm0-8zm-19 3zm-5 1zm-3 2zm-6-2zm-1 4zm-5-5zm-2 1zm-4-1zm-3-3zm-1 5zm-21-1zm-11-1zm-6-1zm-13 6zm-13-7zm-3 3zm-2 1zm-3-5zm-4 1zm-8 1zm-1-5zm-6 3zm-2 8zm-2-4zm-8-5zm-19 3zm-19 0zm-17 2zm-4-4zm-17 4zm9 5zm9 9zm6-6zm9-3zm9 10zm28-2zm12-4zm1-2zm13 2zm22-3zm8 6zm3 3zm11-3zm9 4zm12 0zm5-9zm6 7zm5 0zm2 0zm1 1zm23-9zm6 0zm0 8zm14 1zm8-4zm5 5zm4 9zm-22-3zm0-4zm-7 5zm-26-1zm-6-1zm0 2zm-7-1zm-8 1zm-21 1zm-4 3zm0 0zm-2-2zm-10-2zm-12 3zm-7-1zm-1-3zm-17-3zm-6 2zm-7 3zm-2 2zm-8-7zm-1 8zm-2-1zm-8-1zm-18 1zm-16 0zm-15 1zm-1-10zm18 16zm2 7zm2 0zm8-4zm17-2zm10-3zm13-2zm9 6zm8 2zm20-5zm7-3zm22 3zm13 7zm5-2zm6-4zm6-2zm0-1zm10 8zm5-4zm10-3zm1 7zm8-7zm11 0zm14 10zm-23 11zm-24-2zm-3-8zm-30 1zm0 8zm-1-5zm-14 3zm-1 3zm-49-4zm0 4zm-1-5zm-4-2zm-3 5zm-24-3zm-24-6zm-9 6zm-22 16zm38-7zm18 4zm11-7zm33 7zm9-1zm4 3zm2-1zm2 1zm14-6zm3 7zm2-5zm11-1zm5-2zm5 7zm10 2zm6-7zm17 3zm5-6zm11 1zm1 3zm4 3zm2-4zm11 1zm-18 11zm-29 1zm-4-5zm-2 5zm-33-2zm-18 4zm-14-2zm-3 1zm0 1zm-12 2zm0-4zm-13 3zm-1-4zm-4-3zm-18 9zm-19-8zm-11-2zm-17 8zm58 9zm28-5zm2 4zm20 4zm54-4zm5 2zm10 1zm-9 11zm-24-5zm-7 6zm-14-2zm-15 1zm-1-6zm-24 10zm9 11zm21-4zm26 16zm-31-2zm-1-2z"/>
<path id="g3_4" d="M556 287zm-105-6zm63 13zm9-1zm2 3zm34 1zm47 11zm-15 0zm-18-6zm-2-2zm-28 4zm-40 16zm22-7zm25 2zm13 1zm15 0zm8-4zm11 1zm10 5zm2 2zm7-8zm11 13zm-3 8zm-3-5zm-22 6zm-1-8zm-14 0zm-19 4zm-2 1zm-9-2zm-5 4zm-44-7zm24 11zm26 0zm12 6zm1 4zm2-4zm6 4zm2-4zm1-3zm4 1zm8 4zm2-9zm14 3zm48 10zm-21-1zm-19 4zm-7-3zm-14 4zm-25-2zm-5 8zm-3-2zm-11-5zm-3 0zm-35 15zm19 3zm4-2zm2 1zm5-4zm18 2zm3-3zm7 5zm12 2zm3-4zm8 3zm9-9zm3-1zm3 5zm12 3zm3 1zm2-6zm4 1zm5-1zm25 0zm12 8zm-37 6zm0 4zm-17-4zm-15-1zm-6-1zm-2 3zm-6-5zm-22 4zm-44 1zm-2 5zm-45-5zm34 16zm25 0zm39 1zm0-2zm25 1zm1-3zm33 4zm11-6zm6 1zm16 4zm7-2zm18 2zm3-3zm16-2zm11 18zm-12-1zm-10-7zm-22 5zm-2 0zm-7 1zm-3-3zm-17-3zm-9 4zm-16 0zm-8 4zm-16-7zm-8 6zm-7-9zm-17 4zm-5-1zm-9-3zm-48 3zm-19 16zm54 0zm6 1zm17-6zm17-2zm0 1zm1 9zm21 0zm1-7zm21-1zm49 7zm1-1zm34-2zm2-2zm7-4zm-9 15zm-2 1zm-36 3zm-13-7zm-4 4zm-21 3zm-7 2zm-1-9zm-15 0zm-11 2zm-2 0zm-27 8zm-8-7zm-7 7zm-5-4zm0-4zm-2 7zm-17 1zm-6-5zm-1-4zm-14 8zm-1-2zm-6-2zm-4 9zm42 6zm2-7zm1 0zm10 7zm10-9zm5 9zm21-5zm18 7zm11-6zm5 1zm4 0zm13 5zm5-4zm5 4zm4-4zm4 1zm0-5zm13 4zm13-1zm13-2zm9-2zm-4 15zm-28 3zm0-3zm-17-5zm-10 8zm-4-6zm-65-2zm-10 2zm-3 3zm-13-2zm-6-1zm-7 3zm-15-2zm-10 12zm30 6zm15 2zm44-10zm1 10zm2-9zm14 8zm21-10zm9 10zm5-10zm4 4zm20 5zm3 0zm5-5zm3-4zm1 3zm5 0zm2 3zm6 0zm-14 10zm-8-4zm-12 0zm0 8zm-14-4zm-2-4zm-7 9zm-2-8zm-29 2zm-2 4zm-15-5zm-5 7zm-12-3zm-4 3zm-29-7zm-21 5zm-35 4zm-41-3zm31 9zm49 2zm13-4zm5 2zm63 3zm2 1zm23-8zm1-1zm56 1zm5 6zm1-7zm12 7zm-26 13zm-11-4zm-9 6zm0-2zm-4-8zm-21 9zm-1-1zm-10-2zm0-2zm-5 4zm-13-7zm-9 3zm-14 7zm-5-2zm-18-8zm-8 0zm-8 4zm-29-5zm-18 4zm2 16zm7 2zm2 1zm6-11zm8 11zm6-8zm24 0zm8 7zm36-8zm46 7zm1-9zm31 8zm2-1zm7-2zm5 14zm-19 3zm-3-10zm-20 7zm-5-1zm-8-2zm-11 6zm-6-5zm-5 5zm-19-10zm-16 1zm-10 10zm-23-2zm-34-1zm-10-7zm-52 19zm61 1zm12-2zm59-4zm2 7zm37-7zm7 3zm4 0zm0 5zm3-3zm6 2zm8-4zm3 5zm11-10zm15 10zm0 1zm-10 10zm-31-6zm-25-2zm-36-2zm-17 0zm-21 10zm0-1zm-13-7zm-4-1zm-34 3zm-18 3zm64 13zm9-7zm6 0zm4 2zm56 6zm1-1zm44-7zm0-1zm2 10zm20-10zm1 0zm-20 15zm-38-2zm-21 3zm-24 5zm-34-7zm10 12zm37 0zm38 3zm-42 13zm-22-1zm-3 0zm-9-5z"/>
<path id="g3_5" d="M524 274zm14 12zm-8-4zm15 14zm3 0zm3-4zm68 6zm-30 7zm-76 15zm25 2zm4-10zm11 9zm2 0zm8-4zm21 0zm7 3zm6-5zm35-3zm-5 17zm-44 0zm-16-2zm-20 2zm-20-5zm-5 7zm-6-2zm-12 6zm12 5zm7 5zm23-5zm3 3zm10 1zm51 0zm24 1zm9-5zm4 2zm-7 9zm-5 2zm-11 0zm-3 4zm-27-2zm-26 0zm-37-7zm4 12zm3 1zm13 8zm39 1zm8-8zm1 7zm7 0zm7-8zm33 10zm13-5zm2 1zm22 4zm8 8zm-25-1zm-1-5zm0 8zm-16-2zm-3-2zm-7-5zm-8 11zm-18-8zm-2 3zm-12-2zm-1 0zm-3 1zm-8-1zm-3 1zm-4 4zm-16 1zm-4-8zm-2 6zm-3-1zm-18 11zm19 0zm1 0zm6-4zm8 2zm23-1zm40 3zm9 0zm11-3zm1 1zm22-3zm32 10zm-12 10zm-4 1zm-13-9zm-7 3zm-2 6zm-9-8zm-7 9zm-5-8zm-2-1zm-26 0zm-6 0zm-1-2zm-15 1zm-8 6zm-3-1zm0 3zm-2 0zm-28-8zm-30 0zm-10 6zm-2-6zm-16 13zm82 3zm45-2zm4-1zm13 4zm13 5zm1-7zm23-2zm6 0zm2 0zm7 7zm6-1zm2-1zm2 15zm-1 0zm-36-10zm-3 2zm-9 3zm-15-5zm-22 5zm-74-4zm-5-1zm-2 4zm-41 18zm4-8zm26 9zm20-7zm13 5zm0 0zm33-2zm1-2zm12-3zm0 5zm72-2zm9 2zm13-4zm16 8zm1-9zm-23 20zm0-10zm-11 5zm-33 2zm-26-6zm0 2zm-9-1zm-9 6zm-5-1zm-11-5zm-7 5zm-14-1zm-12 5zm-46-3zm-1-3zm-8-3zm-23 10zm40 5zm1 4zm7-5zm9 7zm16-8zm6-2zm28 10zm6-5zm1 3zm11-6zm20 0zm1 2zm10 6zm24-4zm10-7zm16 3zm11-1zm-21 21zm-8-8zm-14 2zm-24-3zm-22 9zm-56-6zm-12 6zm-2 0zm-2-1zm-12-3zm-2 0zm-18-2zm-29 7zm47 10zm36-9zm18-1zm12 0zm13 9zm6-2zm16-4zm5 8zm11 0zm38-6zm-27 13zm-12-4zm-1 9zm-7-3zm-18 0zm-7-6zm-1-2zm-35 6zm-4-1zm0 4zm-2 2zm-12-5zm-36 1zm-4-7zm-45 8zm38 10zm17-3zm4 6zm4 1zm37-8zm12 1zm4 2zm30 2zm9 1zm3 1zm2 2zm1-6zm9 4zm22 1zm2-7zm14 2zm6 1zm-70 14zm-8-2zm-21 0zm-14 0zm-4-1zm-16-2zm-1-2zm-6-1zm-50 6zm42 17zm23-2zm8-4zm4 1zm3 4zm15 0zm12-2zm34 4zm-5 3zm0 3zm-20-5zm-5 3zm-3-3zm-6 3zm-5 4zm-40-7zm-1 2zm-13 3zm-6-4zm-2-1zm-42 5zm36 16zm17-7zm28 8zm44 0zm0-9zm6 3zm9-3zm31 7zm-24 7zm-26 5zm-6-9zm-4 11zm-14-3zm-10-8zm-8 0zm3 16zm5 11z"/>
<path id="g3_6" d="M550 297zm18 10zm-55-3zm25 13zm37-3zm1 1zm8 4zm3-5zm6 5zm31 3zm15 8zm-36-5zm-17 10zm-19-5zm-14 0zm18 14zm79 10zm-35-2zm-5 5zm-78 1zm0-5zm-26 6zm20 7zm36 2zm3-3zm33 1zm4 2zm2-8zm14 0zm6 7zm17-2zm52 18zm-2 0zm-3-5zm-14-2zm-2-3zm-3 10zm-1-2zm0-5zm-9 1zm-15 4zm-2-3zm-41 3zm-19-4zm-25 3zm-7-1zm-8 2zm-4-6zm2 11zm10 2zm2 5zm17 2zm5-7zm5 2zm36-3zm25 2zm12 1zm10 5zm4-3zm13-6zm0 6zm8-7zm-4 16zm-10-2zm-2 1zm-8 5zm-35 0zm-49-5zm-60 13zm82-2zm25 0zm33-2zm27-1zm5 1zm-28 14zm-18-3zm-7 6zm-5 5zm-54-1zm-25-3zm-53 1zm-7-4zm-12 10zm2 6zm47 3zm13-4zm27 0zm1-3zm50 3zm76 2zm1 1zm-22 12zm0 0zm-46-7zm-10 5zm0-5zm-6-1zm-6 3zm-7-3zm-3 9zm-7 0zm-3-2zm-42-7zm-56 10zm4 7zm9-1zm6 1zm9 1zm35-3zm0 0zm1 1zm1 4zm5-5zm15 6zm3 0zm26-11zm12 11zm1-3zm21 0zm12-8zm14 2zm12-1zm14 0zm9 11zm-8 9zm-7-8zm-45 4zm-29 6zm-29-2zm-2-3zm-23 5zm-21-5zm-10 1zm-8 0zm-23-4zm6 15zm51-5zm7 7zm44 0zm15-6zm8 8zm40 0zm21 0zm3-2zm-1 12zm-10-6zm-4-2zm-18 7zm-13 3zm-11-9zm-12 5zm-27-2zm-5 2zm-2-2zm-20 3zm0 4zm-38-10zm-13 10zm-5-8zm-4 8zm-48-8zm-8 15zm20 2zm56 1zm10-6zm13 0zm31 2zm31-3zm8 6zm1-6zm29 5zm3-7zm24 2zm16 4zm-4 6zm0 4zm-23 7zm-3-11zm-27 2zm-13 0zm-28-2zm-20 3zm-1 5zm-26-5zm-3 3zm-3 2zm-42 2zm-3-3zm-3 4zm12 4zm21 4zm57-4zm2 6zm47 0zm2-5zm18 1zm3-5zm4 8zm10 10zm-5-4zm-29 9zm-20-8zm-14-1zm-2-1zm-3 3zm-2 5zm-1-2zm-24-3zm-8 6zm-22-9zm-10-1zm-3 9zm-8-6zm-5 0zm-3 13zm27-1zm32-1zm10 6zm27-4zm15 1zm28 4zm4-8zm6 11zm-49 11zm-22-10zm-2 0zm-3 8zm-2-9zm-26 7zm-16 0zm15 11zm5-6zm19 4zm1 10z"/>
<path id="g3_7" d="M509 287zm30 10zm46-7zm25 11zm-33 2zm-31 1zm-3 3zm-18 12zm20-1zm10-5zm18 7zm48 2zm16-7zm-53 11zm-14 5zm-26 0zm-48-7zm46 16zm4 6zm3-9zm11 9zm9-9zm14 7zm9-7zm21 7zm22 2zm13-3zm6 9zm-20-4zm-113 7zm-11 3zm2 8zm5-6zm2 1zm40 0zm43 3zm85 15zm-9-1zm-13 3zm-6 2zm-2-5zm-11-1zm-5 1zm-21-1zm-3 0zm-54-4zm-25 9zm-15 11zm19-7zm12 4zm82-5zm15 0zm18 7zm11-8zm5 3zm-6 18zm-41-7zm0 3zm-6-1zm-8-3zm-3 7zm0-3zm-7 4zm-11-6zm-35 5zm-18 2zm-9-1zm-12-2zm-14-1zm-3 16zm2-10zm58 6zm11-1zm9 1zm6-2zm45 4zm20 2zm11-3zm40-3zm-26 10zm-29 6zm-7 3zm-3-5zm-17-1zm-6 0zm-34-2zm-45 0zm-9-2zm-31 0zm-3 13zm40-2zm3 1zm10 7zm4 1zm26-8zm3-1zm27 2zm27 9zm4-2zm48-8zm1 10zm-7 8zm-28-3zm-5 6zm-14-4zm-18-4zm-12 7zm-13-1zm-3-5zm-43 7zm-10-8zm-18 21zm56 0zm28 0zm8-10zm0 4zm17-4zm7 5zm10 2zm2 1zm11 1zm42-3zm-5 10zm-9 3zm-33-2zm-20 0zm-11-3zm-36 8zm-2-9zm-17 8zm-18-6zm-2-4zm-14 1zm-14 1zm-98 20zm82-7zm55 8zm12-3zm14-6zm19 2zm13-1zm6 8zm28-11zm17 7zm4-6zm22 10zm-10 9zm-7-2zm-22-3zm-41 7zm-38-4zm-55 1zm-56 11zm26-5zm3 4zm32 4zm20-6zm8 6zm1 0zm19-4zm10 4zm8-9zm1 8zm0 2zm9-8zm7 8zm54-2zm24 3zm9-8zm-80 20zm-43-3zm-10 0zm-10-4zm-106 3zm34 5zm13 1zm1 9zm5-3zm16-6zm3 1zm23 1zm28 5zm15-7zm25 2zm10 3zm2 2zm18-6zm4 8zm5-10zm9 8zm24 3zm-12 10zm-23-9zm-71 11zm-4-6zm-6 2zm-20 4zm-4-6zm-4-5zm-12 5zm-37-2zm67 18zm35-5zm69-2zm-54 16zm-6 0zm-56-2z"/>
<path id="g3_8" d="M551 304zm20 14zm53-3zm-63 15zm-7-1zm-17 5zm26 2zm29 0zm18 7zm3-1zm7 2zm22 6zm-41 2zm-26 4zm-9-8zm-19 9zm0-4zm-29 0zm-28 12zm75 2zm14 0zm1 1zm16-5zm9 4zm16-5zm42-1zm9 12zm-26 1zm-8 9zm-27-10zm-93 8zm93 7zm1-3zm6 9zm3 0zm44-3zm26 0zm8 0zm-36 16zm-34-5zm-24-1zm-53 4zm2 11zm12-2zm0-5zm19 9zm34-7zm8-2zm13 9zm3-2zm12 1zm32 2zm19 10zm-59 2zm-19-8zm-11 7zm-47-9zm-26 21zm11-5zm1 3zm30-5zm47 5zm13-7zm14 2zm5-1zm5 4zm2-1zm7 6zm29-2zm-1 11zm-12 3zm-44-5zm-19 5zm-59 0zm-44-5zm-38 15zm16-7zm4-2zm9 10zm19-9zm78 3zm6-4zm25 4zm7-4zm44 6zm5-6zm2 7zm-12 6zm-50-1zm-10 8zm-15-1zm-1 1zm-25-8zm0 5zm-28-3zm-56-1zm7 14zm17 2zm45 3zm54-1zm42 2zm14 7zm-47 6zm-20-2zm-9 1zm-17-3zm-23-5zm-46 9zm-1-1zm-29-9zm20 13zm34 4zm70 1zm5-3zm19 8zm4-7zm2 0zm5-4zm9 6zm5-3zm7-1zm13-1zm6 10zm-46 1zm-140 3zm-56 1zm16 8zm17 0zm6 7zm14-3zm17-2zm48 5zm12-6zm38 9zm17-8zm45 9zm-33 5zm-18 0zm-12-3zm-7 1zm-7 3zm-25-3zm-5 1zm-28 2zm0 6zm-21-9zm-25 9zm-11-11zm43 23zm9-2zm14-5zm4 7zm33-10zm13 2zm4-3zm5 2zm-4 19zm-42-3zm-31 16zm36-10zm3 7zm4 4zm2-8zm25 0zm-31 14z"/>
<path id="g3_9" d="M618 308zm-162 6zm92-2zm57 5zm10 16zm-29 10zm1 1zm45-3zm3-1zm-56 26zm41-3zm5 0zm43 7zm-10 10zm-28-4zm-63 7zm-17-7zm-4 12zm34 7zm2-7zm31-1zm3-3zm14 0zm8 8zm49 7zm-2 1zm-45 4zm-21-1zm-61 4zm-59-4zm-15-5zm108 13zm59 0zm15 3zm43 2zm3 12zm-4 0zm-37-7zm-15 0zm-6 3zm-29-2zm-10 5zm-34-7zm-28 9zm-6-3zm-45 9zm81 4zm106-1zm10-2zm1 3zm8-7zm-72 14zm-52 0zm-77 19zm136 1zm49-6zm-18 14zm-8-5zm-54 4zm-44-4zm-43 17zm108-4zm53 9zm17-6zm-7 9zm-85-2zm-13 4zm-15 6zm-61-1zm-10-7zm-22 2zm-10 15zm49-1zm11 3zm6 2zm0-2zm6 0zm9-5zm32 6zm62-4zm12-1zm18 2zm13 2zm-115 8zm-55-4zm-29 0zm-5 12zm58-1zm53 3zm5 5zm21 4zm-53 11zm-75-2zm7 3zm24 7zm31 4zm35-11zm3 2zm2 3zm56 4z"/>
<path id="g3_10" d="M551 299zm43 6zm-15-2zm-53 16zm24-6zm16 10zm32-5zm16-6zm8 20zm-11-2zm-26-3zm-5 13zm29 3zm6 4zm41 2zm-10 5zm-7 4zm-34-6zm-28 0zm-31-2zm9 19zm55 1zm3-7zm10 0zm35 0zm9 9zm-1 10zm-6-5zm-2 0zm-39 4zm-26-5zm-32 5zm-2-5zm-37-2zm-23 3zm147 11zm19-4zm20 11zm2-8zm-32 11zm-48 0zm-76 14zm16 0zm79 4zm38 8zm-17-2zm-14 6zm-7-4zm-9-3zm-78 6zm-3 1zm-17-2zm-30 13zm25-6zm98 9zm8-6zm4 13zm-12 4zm-13-4zm-33-1zm-15 7zm-26-4zm-36 14zm78-2zm35-2zm3 2zm1 0zm25 0zm6 0zm47-5zm25 5zm5-1zm-26 13zm-13-7zm-108 6zm-19 1zm-25-6zm-42 21zm24-9zm35 2zm154 1zm-64 8zm-33 7zm-37 0zm-9-5zm-41 16zm75 1zm24-1zm10-1zm2 6zm6-3zm42 11zm-62 0zm-40-1zm-5-4zm-75-1zm143 15zm47-4zm-3 18zm-1 3zm-32-1zm-24-1zm-56-1zm-71-2zm56 18zm22-7zm1 12zm12 12zm4 13z"/>
<path id="g3_11" d="M503 271zm19 13zm69 25zm-9-5zm-49 0zm-52 11zm95 8zm1-2zm24 11zm-29 1zm-16-6zm-3 1zm16 16zm35 1zm31-7zm20 18zm-1-1zm-34-2zm-9 2zm-29-4zm51 19zm14-6zm13 5zm-118 9zm0-1zm20 14zm40 4zm6-1zm47-6zm36-1zm13 8zm-2 3zm-23 4zm-19 1zm-57-1zm-39-2zm-44 7zm33 8zm28-5zm34 8zm37 10zm-14 2zm-4-3zm-59 7zm11 9zm21-3zm31-6zm11 6zm10-7zm12-1zm30 17zm-8-3zm-8 8zm-28-8zm-15 3zm-43-4zm-126 13zm44-1zm46-1zm12 6zm1 4zm31-6zm55 3zm-115 6zm-96 20zm58 2zm69 0zm11-3zm93 3zm7-1zm-57 5zm-37 4zm-15 1zm-1 0zm-8-3zm-14 6zm-16-8zm-21 1zm-18 18zm8-2zm19-2zm45-4zm24 9zm21-6zm25-5zm42 3zm11 0zm2 14zm-25-5zm0 11zm-31-2zm-27-8zm-65 7zm116 16zm-42 7zm-13 3zm-9-6zm-91-4zm8 13zm1 2zm19-2zm70 3zm1 14zm-1 3zm-59 8zm12 7z"/>
<path id="g4_0" d="M86 464zm-13 18zm131 15zm-1 4zm-19-2zm-4-3zm-1 7zm-28-2zm-72 10zm21-1zm1 0zm11-3zm5 0zm3 0zm2 8zm13-2zm14 0zm4-9zm19 8zm4-8zm1 4zm16 4zm3 2zm5-7zm9 8zm-1 5zm-18 0zm-7 3zm-1-4zm-2 3zm-2 1zm-9-4zm-8 4zm-6-7zm-3 11zm-6-11zm-5 11zm-1 0zm-1-7zm-9-4zm-11 8zm-5-7zm-1 3zm-1 4zm-4 2zm-5 5zm22 5zm8-6zm4 9zm12-9zm16 8zm15-8zm4 7zm8-9zm5 9zm3-6zm11-2zm10 6zm1-6zm-27 12zm-26 8zm-11-6zm-3 5zm-14-3zm-8 2zm-16-7zm5 13zm8 4zm12 0zm21-5zm7 3zm2 0zm10 6zm3-2zm13-7zm33 6zm-14 14zm-8 0zm-12 1zm-2-8zm-15 7zm-3 2zm-7-10zm-1 2zm-3-1zm-5 6zm-1 2zm-11-6zm-25 6zm19 10zm10-5zm11 5zm10-2zm3 6zm10-10zm3 4zm1-5zm1 8zm4-4zm5 0zm6 1zm5 5zm1-7zm4-2zm3 0zm3 8zm7-3zm-5 7zm-31-1zm-5 8zm-1-1zm-5-6zm-18 1zm-1 0zm-14-1zm22 15zm7-4zm5 11zm6-3zm4-6zm2 3zm4 3zm3 3zm5-8zm7 11zm-29 2zm5 11z"/>
<path id="g4_1" d="M100 491zm87 6zm-18 0zm-2 1zm-10 4zm-1 1zm-30-1zm-14-2zm-3-1zm-24-4zm-10 0zm-5 13zm13-3zm19 7zm19-2zm0 1zm5-2zm18 4zm1 1zm6-6zm21 1zm16 4zm1-5zm13 6zm7-7zm13 19zm-6 1zm-8-1zm-11 1zm-37-7zm-10 0zm-24-2zm-20 2zm-9 7zm-4-6zm-2 6zm-5-5zm31 7zm11 10zm13-9zm5-1zm2 7zm4-8zm1 9zm3-4zm0 6zm33-1zm4-1zm5-5zm29-1zm-17 9zm-38 0zm-1 3zm-30 3zm-10 1zm7 16zm3-6zm10-1zm20-3zm5 0zm7 0zm8 9zm3-7zm12 4zm7 0zm14 16zm-32-4zm-3-3zm-3 6zm0-10zm-50 9zm-14-4zm35 8zm16 1zm6 8zm9-1zm8 0zm8-3zm0 0zm1-1zm0 2zm18 0zm0-2zm3-2zm-9 20zm-3-1zm-9-8zm-5 0zm-5 6zm-2-5zm-11-2zm-2 2zm-1-1zm-6 5zm-5 2zm-7-4zm-8 5zm4 3zm19 5zm6-4zm4-2zm11 2zm11 20zm-2-8zm-23 3zm-16 7z"/>
<path id="g4_2" d="M74 474zm2 7zm131 21zm-30 0zm-51-2zm-3 2zm-14 10zm14-2zm35-2zm13 2zm2-6zm1 7zm19 0zm3 4zm4-1zm19 10zm-5 3zm-13-6zm-20 4zm-8-7zm-9 2zm-29 5zm-10-4zm0 5zm-10-8zm-7 9zm-1-8zm-3 4zm-5-1zm-2 9zm24 8zm7-4zm9 1zm11-8zm23 0zm1 8zm11 1zm8-3zm6-5zm4 3zm2 2zm0-2zm5 6zm-36 4zm-3 0zm-24 3zm-32 16zm23-9zm16 2zm10 6zm19-3zm6 6zm7-4zm1-6zm11 8zm25 3zm-6 2zm0 1zm-8-1zm-7 5zm-1 3zm-13-7zm-4 1zm-20 5zm-4-1zm-35-6zm-1-1zm21 16zm16 5zm5-6zm5 2zm4-1zm2 6zm2-7zm4 0zm0-4zm14 7zm12 1zm1-4zm-6 15zm-5 2zm-1 2zm-1-5zm-12 3zm-13-7zm-4 5zm-26-3zm-1-4zm13 15zm20 8zm-5 4z"/>
<path id="g4_3" d="M75 490zm5-5zm1-4zm28 8zm1 1zm1 9zm-6-3zm-2 3zm-12 2zm-3-6zm-6 15zm4-6zm7 11zm38-9zm2 3zm26-1zm19 0zm1 1zm20 2zm3 4zm16 11zm-75 0zm-15-6zm-7 7zm-21-9zm-4 0zm-7-2zm22 12zm35 11zm0-7zm5 6zm2-2zm5 0zm18-6zm4 1zm2 3zm1 1zm5-5zm16 7zm15-4zm4 11zm0-4zm-2 3zm-2 5zm-23-2zm-21-2zm-16-4zm-12 1zm-11 6zm-5-2zm9 14zm29 0zm1-3zm0-1zm13 5zm8-5zm4 5zm8-4zm7 7zm0-9zm11 18zm-2-3zm-2 5zm-11-6zm0 0zm-6-4zm-1 9zm-1-9zm-2 2zm-1 9zm-4-3zm-22 2zm-20-3zm7 8zm13-2zm53 6zm8 12zm-14 4zm-5-1zm-3-3zm-16 0zm-2-3zm-11-2zm-2 0zm-4 5zm-10 2zm-6-5zm30 11zm7 2zm33 4z"/>
<path id="g4_4" d="M184 492zm-53 1zm-32 3zm-19 2zm6 16zm7 1zm1-6zm20 3zm30 1zm3-5zm10-3zm9 9zm7-10zm27 21zm-41-2zm-6 3zm-4-3zm-22 0zm-17 0zm-5-2zm-8-4zm27 13zm4 7zm13-1zm19 2zm17-10zm15 1zm22 0zm13 13zm-12 1zm-17 5zm-14 0zm-8-6zm0 2zm-4 2zm-9 3zm-31-4zm-5 1zm-5-4zm36 14zm1 6zm29-5zm12 0zm13 0zm1-3zm1 2zm3-3zm0 0zm1 6zm6-5zm1 3zm1-3zm-13 16zm-11-5zm0 4zm-7-3zm-1 9zm-30-3zm-31-8zm13 17zm19 4zm4 1zm3-5zm5-2zm4-1zm1 5zm13-2zm16-1zm3 1zm9 0zm1-2zm-30 14zm-10 5zm-3-7zm-2-2zm-2 5zm-2 4zm-2 11z"/>
<path id="g4_5" d="M153 503zm-2-1zm-15-4zm-38-1zm-4-5zm-12 7zm-6 6zm63 3zm39 1zm2-3zm7 5zm12-2zm12 9zm-1 1zm-10 5zm-11 3zm-18-8zm-27-3zm-2 4zm-21 5zm-6-2zm13 10zm6-5zm14 2zm18 4zm13-3zm14 8zm5-10zm27-1zm-40 14zm-23 0zm-20 8zm-7 5zm21 5zm4-3zm14 5zm8-10zm3 3zm44 3zm-19 14zm-1 0zm-19-7zm-9 1zm-16 2zm-15-4zm23 12zm30 3zm1-2zm25 19zm-15-5zm-18-3zm-1 2zm-6 3zm19 17zm6-8zm5 3z"/>
<path id="g4_6" d="M173 502zm-18 0zm-2-4zm-17 5zm-19 7zm45-6zm5 8zm11-4zm7-2zm3 3zm26 18zm-43-5zm-22-1zm-7-3zm-9 7zm-24 0zm-3 1zm-7-3zm7 14zm30-5zm18-2zm59 11zm-11 9zm-2-7zm-3 0zm-10-1zm0 7zm-1-5zm0-3zm-3 1zm-8 0zm-6 5zm-26-6zm-5 1zm5 16zm9-2zm5-1zm9-3zm21 4zm18-1zm9 8zm2-9zm-20 19zm-28 0zm-14 1zm-9-2zm-10-8zm43 15zm19 1zm14 6zm-28 2zm-20 9zm55 14zm-27 4z"/>
<path id="g4_7" d="M78 513zm47-2zm15-3zm5 2zm40 3zm12 0zm14-1zm-42 8zm-21 3zm-14-6zm-27 2zm31 14zm4 6zm65-6zm12-2zm-10 10zm0 10zm10 7zm-26 17zm-28-10zm-12 6zm-16-7zm47 18zm9-2zm12 7zm15-11zm6 11zm-9 11zm-4-5zm-18 12zm24 0zm-29 27z"/>
<path id="g4_8" d="M178 499zm-38-4zm-24 8zm-37 11zm30 1zm57-9zm2 4zm-34 29zm68 7zm-48 5zm45 2zm12 2zm2 14zm-1-3zm-24 4zm-17-4zm17 12zm4-2zm2 6zm45 2zm-58 8zm12 16zm-3 4z"/>
<path id="g4_9" d="M154 503zm-17 10zm7-2zm30 3zm27 0zm-28 5zm-20 6zm-22 13zm37 6zm-33 3zm-13-7zm23 22zm10-3zm67 4zm-86 5zm50 17zm4-8zm11 8zm21-1zm-26 10zm-28-6zm-8 2zm4 13zm26 13z"/>
<path id="g4_10" d="M112 508zm30 5zm35-5zm1-3zm16 22zm-14-11zm-25 4zm-31 4zm-6 3zm-4 6zm35 5zm20-2zm9 3zm6-3zm35-6zm-8 21zm-1-7zm-3 5zm-9-7zm-65 11zm57 8zm21-4zm-65 17zm50 5zm4 8zm18-3zm10 10zm-51 14z"/>
<path id="g4_11" d="M95 495zm21 15zm91 9zm-62 0zm-8 3zm-2-1zm79 29zm-50 0zm-1-5zm-9-3zm4 19zm40-3zm32-6zm-45 23zm18 1zm27 13zm-12 0zm-36 8z"/>
<path id="g5_0" d="M268 531zm31-3zm-57 24zm61 5zm65 17zm-137 4zm34 1zm93 5zm15-6zm135 11zm-66 26zm-34 2zm-140 7zm220 3zm-302 26zm65 3zm20-2zm146 5zm-17 2zm-12 3zm-64 5zm-6 9zm53 19z"/>
<path id="g5_1" d="M328 538zm-18 5zm-16 29zm117 14zm97 6zm-167 1zm152 12zm-36 13zm-97-5zm-51 7zm-55-1zm-51 11zm151 8zm-43 6zm-129-3zm55 10zm108 4zm75 3zm26 12z"/>
<path id="g5_2" d="M386 543zm-84 1zm16 35zm113-1zm-15 15zm-117 11zm103-2zm-135 17zm-9 38zm77 9zm-140 8zm185 22zm52 32z"/>
<path id="g5_3" d="M291 523zm67 5zm-85 21zm231 14zm-212 1zm201 32zm-237 41zm121 39zm55 1zm-9 31zm15 20z"/>
<path id="g5_4" d="M260 556zm-5 9zm101 24zm-77 22zm144-6zm49 9zm-177 19zm165 7zm-54-2zm-34 6zm-75-4zm88 59z"/>
<path id="g5_5" d="M319 524zm9 22zm-24 32zm-21 14zm143 31zm-233 13zm174 19z"/>
<path id="g5_6" d="M243 579zm41 13zm253 33zm-283 20zm171 27zm43 10zm-106 8z"/>
<path id="g5_7" d="M347 591zm43 13zm7 109z"/>
<path id="g5_8" d="M386 649zm63 44z"/>
<path id="g5_9" d="M413 717z"/>
<path id="g5_10" d="M240 565zm-50 44zm274 6zm-93 37z"/>
<path id="g5_11" d="M338 572zm18 73z"/>
<path id="g6_0" d="M374 572zm-10-1zm-5-7zm-6 23zm10-6zm8 7zm-9 19zm1-1zm3 3zm28-4zm-5 15zm0 3zm-1 0zm-19-8zm-4 16zm22-4zm5-1zm22 21zm-12-4zm-3 2zm-3-6zm-2-1zm-3 8zm-5-8zm-4 7zm-12-3zm-2-6zm-88 23zm2-2zm85-5zm9-2zm6-2zm15 0zm-21 21zm-93-3zm-9-5zm-2-1zm-7 11zm-16-5zm8 14zm7-5zm22 8zm14-7zm20 2zm72-2zm15 3zm7 2zm8 5zm-130 8zm-2-5zm-30 4zm2 4zm14 5zm19-1zm8-5zm0 11zm11-3zm8-1zm35 2zm49-5zm-23 11zm-8 18zm20-9zm49 10zm-16 11zm-1-5zm-5 1zm-46 2zm11 13zm7-2zm5-1zm14-2z"/>
<path id="g6_1" d="M358 576zm9 7zm2-3zm8 2zm10 26zm12 14zm-16-6zm-1-4zm-3 5zm-3 1zm-8 0zm-3 2zm14 8zm9 6zm21 11zm-6-4zm-146 17zm46-6zm1 7zm91-4zm-125 6zm-23 0zm3 21zm14-4zm45 4zm5-3zm83 1zm12-6zm-18 14zm-114 3zm-8 2zm22 9zm21-5zm5 0zm84 7zm-19 10zm-12-3zm39 10zm5 5zm19-2zm-7 16zm-38-4zm-20 8zm34 6zm20 2z"/>
<path id="g6_2" d="M355 550zm17 17zm3 15zm6 8zm-13 18zm4-8zm15 11zm4 8zm-20-6zm-10 17zm7-4zm9 9zm0-8zm4 4zm6-4zm26 20zm-1-2zm-25-3zm-121 11zm25 6zm105-3zm-3 11zm-13 2zm-6-4zm-91 6zm-16-7zm9 9zm47 7zm69-6zm2-2zm1 2zm-123 12zm0 13zm23-1zm5 5zm78-3zm44 9zm-3 4zm-39 4zm-17-7zm22 17zm20 36zm-6-5z"/>
<path id="g6_3" d="M360 556zm12 7zm3 11zm-20 2zm8 9zm24 6zm-7-3zm-17 10zm-3 11zm3-9zm2 8zm6-2zm9 12zm1 17zm6-4zm3 0zm-2 11zm-24-5zm0 5zm-108 17zm132-6zm16-4zm-141 29zm19 2zm115-2zm-3 7zm-98 6zm-33 1zm29 11zm23-5zm5 0zm-55 11z"/>
<path id="g6_4" d="M355 573zm25 15zm-8 19zm16-2zm2-2zm9 15zm-25-2zm-5 6zm37 25zm-9-9zm-5-2zm-87 23zm91 6zm-3-4zm-14 0zm-77 4zm-16 6zm-32-10zm46 11zm79 10zm6-1zm8 7zm-3 2zm-73-2zm-11 1zm-31-3zm-10 0zm30 25zm89 11zm2 7zm11-4zm14 14zm-6 20z"/>
<path id="g6_5" d="M378 603zm-1 19zm12 10zm6-4zm-2 14zm-12 5zm-3-7zm-4 18zm21 0zm2-7zm4 20zm-2-8zm-99 7zm-45-6zm37 15zm24-7zm10 20zm-36 1zm19 7zm10 3zm56 2zm4 2zm-99 1zm82 18zm26-5zm51 10zm-64 12z"/>
<path id="g6_6" d="M375 572zm-13-4zm-10-4zm29 32zm-6 1zm-6-4zm10 23zm-8 18zm-99 18zm131 14zm-9-6zm-131 21zm5-8zm16 1zm24 0zm-56 17zm121 14zm48 13zm-13 1zm-8 1zm-7 24zm36 5z"/>
<path id="g6_7" d="M366 576zm6 0zm-18 16zm11 14zm3 0zm15 20zm6 5zm12 11zm-34-6zm-104 21zm10 4zm-11 8zm48 9zm-31 25zm22 1zm2-6zm93 19zm-7 22z"/>
<path id="g6_8" d="M368 557zm21 54zm-22 16zm-89 19zm-5 13zm131-8zm-6 11zm-17 1zm-80 3zm-39-3zm126 10zm17 2zm-13 9zm-121 20zm118 14zm31 28zm6 5z"/>
<path id="g6_9" d="M353 572zm21 20zm-11 2zm31 23zm-34 17zm19 8zm18 13zm-77 11zm-34 8zm101 23zm4 3z"/>
<path id="g6_10" d="M362 551zm15 47zm-10-9zm-89 66zm118-1zm6 5zm-130 13zm130 25z"/>
<path id="g6_11" d="M366 607zm10-5zm-9 24zm23 21zm7 24zm-1 8zm-36 15zm53 39zm-54 0zm64 13z"/>
<path id="g7_0" d="M284 658zm2 0zm3-3zm9-6zm3 22zm-3-5zm-1 1zm-40 1zm-4 3zm-2-3zm-2 2zm-27 6zm17 1zm24-1zm31 6zm22-2zm-3 11zm-1-5zm-4 5zm-10-4zm-7 0zm-6 7zm-10-3zm-5 4zm-15-1zm-2-7zm-18 5zm-20 3zm-26 11zm7 0zm7-4zm4 1zm5 3zm11-5zm3 3zm11-8zm8 0zm3 6zm4 1zm6 3zm7-1zm28-4zm17-2zm6 3zm-31 14zm0-3zm-9-2zm-1-2zm-5 9zm-1-3zm-1-4zm-5 5zm-1-7zm-4 10zm-1 0zm-10-3zm-54-1zm-14 3zm-17-7zm0 5zm0 3zm-45 6zm2-1zm21 4zm8 1zm1 1zm9 1zm3 0zm8-5zm2 2zm35-3zm7-5zm5 9zm2-6zm14-2zm14 7zm10-8zm12 4zm21 3zm14-1zm-11 16zm-11-3zm-22 2zm-18-7zm-19 0zm-6 6zm-3-4zm-2 2zm-6-4zm-17 2zm-3 6zm-1-7zm-13 0zm-22 7zm-34-7zm-23-2zm-3 14zm1-1zm3 7zm19-2zm0-3zm9-1zm36 2zm42-2zm5-2zm12 9zm3-6zm14 3zm4 3zm16-10zm29 2zm14 2zm-22 11zm-7 7zm0 0zm-1-7zm-11 0zm-13-3zm-23 1zm-1 6zm-2-7zm-28 2zm-4 4zm-30 3zm-8-9zm0 11zm-2-1zm-17-4zm-1-3zm-6 0zm-12 1zm-5 4zm-10-4zm0 5zm-12-4zm-2 5zm-5-2zm12 9zm21 3zm12-4zm8 1zm15-4zm4 4zm7-1zm7-2zm5 8zm8-4zm11 3zm1 1zm1-9zm22 10zm5-4zm8 4zm4-3zm3 2zm9-3zm3-1zm1-3zm18 0zm8 7zm8-5zm4 3zm0 2zm-6 10zm-7-8zm-13 1zm-2 0zm-5 7zm-14-6zm-2-1zm-5 2zm-15 3zm-4-3zm-1 4zm-27 1zm-5 3zm-11-4zm-23-2zm0-1zm-13 3zm-7 2zm-7 1zm-14-10zm-5 9zm-3-8zm-3 10zm-3-9zm-6 20zm19-10zm1 0zm1 1zm12-1zm0 5zm31-5zm14 7zm11-2zm15 6zm8-7zm0 7zm1-7zm7 6zm0-9zm26 6zm16-4zm2 7zm2-9zm15 7zm1-5zm3 2zm2-5zm0 0zm14 6zm10 1zm-32 8zm-15-2zm-5-1zm-18 8zm-13-2zm-34 1zm-15-2zm-12 6zm-5-6zm-5-4zm-20 9zm-5-7zm-24 2zm7 8zm25 2zm9-1zm3 4zm1-2zm5 6zm13-2zm2-8zm15 6zm2-2zm1-1zm9-2zm1 9zm41-10zm4 8zm8 3zm6-6zm9-3zm3 5zm5-4zm2 0zm5-2zm7 6zm0-1zm0-2zm5 2zm-2 8zm-2 2zm-6 5zm-8 1zm-2-2zm-9-8zm-7 7zm-12 2zm-23-4zm-1 4zm-4-6zm-26 8zm-12-4zm0 3zm-7-9zm-15 1zm-2 0zm-5-1zm-13 2zm-24 4zm-1-2zm21 14zm3-3zm0 3zm2 0zm10 1zm8-8zm20 4zm5-4zm22 11zm8-4zm22-7zm14 5zm1-4zm2 7zm19 2zm4-9zm9 0zm4 5zm-28 6zm-43 7zm-1-7zm-1 1zm-1 9zm-4-3zm-39 0zm-21 1zm-1-8zm-12 4zm-12 0zm2 9zm11 4zm84-5zm11 8z"/>
<path id="g7_1" d="M270 655zm22 2zm2 6zm-15 8zm-12-8zm-6 6zm-17-4zm13 16zm12-1zm5-7zm11 2zm3 5zm15-7zm-44 19zm-33-8zm-49 7zm-1 15zm9-1zm22-9zm8 6zm6-5zm7 1zm9 3zm6-5zm13 7zm4-3zm13-4zm25 8zm4 1zm23 5zm-20 8zm-11-7zm0 5zm-5-8zm-3 6zm-33-4zm-22-1zm-17 5zm-3-3zm-13 7zm-8 0zm-24 0zm-11-8zm-15 4zm-6 5zm0-2zm-4 1zm-5 1zm12 10zm3-7zm28 7zm4 1zm5 0zm17-3zm10-1zm1-1zm1-3zm29 8zm22-10zm1 9zm40 2zm9 11zm-4-7zm-13 5zm-5-8zm-11 4zm-34 6zm-12-5zm-13-1zm-12-4zm-2 0zm-6 0zm-2 8zm-9-5zm-12 8zm-18-2zm-5-9zm-3 8zm-23-2zm-13-3zm-2 5zm-2 3zm-12 8zm6-7zm7 5zm1 4zm24 1zm8 0zm3-10zm41 0zm14 2zm17 5zm10-1zm27-3zm38 8zm12 10zm-7-4zm-13-4zm-9 4zm-29 2zm-9-1zm-7-3zm-15 0zm-5 1zm-1 7zm-7-10zm-13 9zm-6-3zm-4-1zm-11 2zm-1 3zm0-9zm-21 5zm-41-5zm-35 3zm22 7zm33 4zm5-4zm14 11zm5-1zm0-1zm14-6zm41 4zm53 2zm22 0zm6 12zm-9-8zm-1-1zm-10 2zm-21 0zm-8 7zm-24-3zm-4 3zm-7-5zm-4 5zm-5-7zm0-1zm-7 2zm-7 4zm-1 0zm-23 3zm-9-6zm-4 7zm-33-9zm-10 2zm-1-1zm-12 8zm-14-11zm9 15zm2 2zm11 3zm7-1zm14 0zm27-1zm7-5zm6 8zm12-9zm5 6zm17-3zm20 4zm10 0zm1-3zm4-3zm6 5zm6 4zm18-2zm19 2zm10 7zm-16 4zm-5-6zm-6-3zm-12 1zm-7 1zm-8 3zm-4 0zm-13-2zm-30 8zm-10-8zm-3 2zm-33 4zm-1-4zm-7 4zm-1 1zm-5-4zm-1-5zm-7 0zm-12-1zm-1 6zm-1 5zm-15-7zm3 10zm2 3zm15 2zm12-1zm3 2zm7-7zm8 1zm9-1zm12 5zm10 3zm5-1zm2 2zm12-7zm1 6zm0 2zm17-7zm18 3zm2-1zm8 1zm18 1zm17 2zm6-8zm-16 17zm-2 2zm-1 2zm-8-7zm-13-1zm-4 7zm-14-6zm-8 4zm-5-4zm-1-3zm-9 5zm-7 4zm-44-5zm-2 0zm-7 1zm-6 1zm-24 0zm10 15zm26-8zm7 4zm4-5zm27 3zm36 3zm40-2zm22 0zm10 14zm-172-2zm111 9z"/>
<path id="g7_2" d="M312 661zm-3 2zm-27 4zm-10 4zm-8-1zm-4-9zm-51 16zm36 4zm19-1zm25 1zm2-9zm14 10zm0-10zm2 0zm11 0zm-1 14zm-11 3zm-7 6zm-18-9zm-10 9zm-36-8zm-57 13zm2 2zm39 5zm15-10zm10 7zm4 2zm3-2zm23-6zm2 2zm2 1zm29 3zm1 2zm-3 8zm-8-6zm-27 4zm-8 6zm-8-5zm-24 1zm-6-5zm-30 0zm-39 0zm-38 22zm26-1zm1-6zm10-1zm4 7zm16-1zm2 0zm20-4zm12-2zm18 4zm3-6zm1-1zm8 4zm8 6zm1-9zm2 1zm5 0zm2 6zm13-4zm3 4zm0-4zm1 1zm1 1zm9-3zm0 5zm10-1zm8-5zm6 3zm-29 14zm-31 2zm-51-2zm-34 0zm-28-3zm-7-1zm-22-3zm-7 11zm-2 5zm4-2zm14-1zm2 6zm57-2zm30 5zm21-2zm1 3zm8-6zm14 1zm5-6zm30 8zm3 3zm-7 8zm-7 1zm-1 2zm-8-8zm-2 2zm-12-4zm-22 11zm-28-3zm-60 3zm-2-3zm-66-6zm19 15zm59-3zm23 9zm1-3zm32-6zm6 9zm10-10zm13-1zm4 1zm14-1zm20 8zm1-6zm18-1zm-25 12zm-5 2zm-36-3zm-3 4zm-11 4zm-3-8zm-1 1zm-14 2zm-10 4zm-8-2zm-19-4zm-2 10zm-14-2zm-1-8zm-2 0zm-46 2zm-11-1zm4 17zm25-2zm2 1zm8-4zm12 4zm53-1zm18 2zm14 2zm2-6zm4 3zm20-2zm4-3zm18 4zm11-4zm9 14zm-6 4zm-1-4zm-8 4zm-32-1zm-77-2zm-33 2zm-19 4zm-34-10zm22 16zm6 7zm1-6zm25-1zm0-3zm19 6zm2 2zm6 1zm15 1zm34-6zm2 0zm20-1zm25-4zm37 4zm-7 14zm-14-5zm-8 9zm-8-5zm-15-5zm-7 7zm-51 2zm-19-2zm-14 4zm-9-1zm-42-9zm9 15zm28 7zm22-4zm17 0zm5 3zm17-1zm18 1zm6-2zm6 1zm30-7zm3 5zm24 3zm-49 4zm-17 1zm-11 6zm-4-4zm-24 3zm29 6zm9 1z"/>
<path id="g7_3" d="M286 657zm-3 14zm-6-1zm-7 1zm-32 2zm21 8zm41-7zm13 16zm-15 3zm-2 2zm-19-7zm-21-2zm-8 5zm-12-1zm-9 3zm-46 14zm7 0zm5-2zm3 2zm24-8zm14 1zm32 7zm14 0zm33-9zm-6 14zm-32 6zm-26-10zm-8 1zm-20-1zm-20 6zm-6 2zm-1 2zm-7-5zm-9-5zm-8 1zm-19 7zm-24 9zm65 5zm16 0zm8-5zm18 2zm8 2zm12-3zm7 5zm2 0zm37-10zm-33 14zm-9 7zm-7-1zm-25-6zm-18 4zm-10-5zm-23 3zm-3 1zm-7-1zm-8 4zm-16-2zm-2 0zm-3-6zm-7 7zm-16 3zm-12-6zm-4 2zm5 15zm6-3zm1 4zm19-6zm17-5zm14 3zm33 7zm11-4zm22 1zm24-1zm2 0zm8 3zm3 1zm24 1zm11-4zm-28 16zm-64-7zm-15-3zm-1 10zm-2-10zm-8 10zm-23-5zm-4 1zm-60-4zm-10-3zm-26 9zm24 7zm82 7zm2 0zm61-1zm49 7zm0-3zm0 3zm-22 2zm-4-3zm-6-2zm-7 9zm-17-4zm-9-2zm-22 4zm0 1zm-7-1zm-1-3zm-6 4zm-35-5zm-9 4zm-16 1zm-36 0zm-1-2zm-1-4zm28 16zm12-7zm11 1zm34 0zm25 1zm39 5zm9-5zm48 8zm-1 1zm-39 1zm-6 0zm-5 5zm-16-2zm0-2zm-13 2zm-23-1zm-8-3zm-8 3zm-5 0zm-5-2zm-8 1zm-2 0zm-26 0zm-47-1zm15 19zm32-4zm2-4zm17 3zm2 3zm7-4zm14 6zm18 1zm32-9zm42 9zm25-8zm-19 17zm-25 3zm-28-3zm-11-3zm-3 7zm-38-6zm-7-4zm-21 7zm-38 11zm11-6zm2 1zm11 4zm52 2zm6-2zm33 3zm23 3zm61-6zm-21 13zm-45 3zm-45-4zm-67-1zm3 10zm12-2z"/>
<path id="g7_4" d="M294 664zm-25 3zm-27 15zm55 7zm-6-3zm-1 6zm-26 3zm-19-2zm-18 1zm-11-6zm-22 18zm17-10zm12 8zm70 0zm20-8zm-33 20zm-2-1zm-4 3zm-36-4zm-32 4zm-17-4zm-50 14zm20-4zm8 7zm24-8zm16 1zm43 2zm58 14zm-17-5zm-16 4zm-2-3zm-21 5zm-12-1zm-3 3zm-9-2zm-15-1zm-1 3zm-30-3zm-88 14zm28-5zm5 3zm27 3zm12-10zm37 4zm5 0zm53 6zm28-6zm8 18zm-26-11zm-3 11zm-9-1zm-5 1zm-13-3zm-4-3zm-39-1zm-7 3zm-1 0zm-4 2zm-27-4zm-35 4zm-19-4zm-23 8zm4 6zm11-7zm8 8zm15-8zm95 8zm15-1zm12 0zm25-1zm28-1zm-34 10zm-7 4zm-67-6zm-1 9zm-9-10zm-3 6zm-46 4zm-56-5zm39 7zm11 9zm4 0zm7-7zm60 6zm4 3zm15-3zm20-1zm0-3zm21-4zm31 9zm-12 13zm-15-8zm-21 3zm-23-4zm-19 0zm-7 5zm-13-4zm-11 7zm-10-7zm-45 0zm-8 2zm-2 2zm-10 1zm22 7zm2 2zm25 1zm33-3zm6 3zm71-3zm13 9zm21 10zm-52 1zm-61-3zm-59-7zm3 20zm1 0zm93-5zm2 5zm-2 6zm-99 11zm8 6zm84-3zm18-1z"/>
<path id="g7_5" d="M270 682zm19-6zm10 16zm-26-5zm-11 3zm-37-4zm-33 16zm30 2zm57 11zm-56 4zm-75-10zm-18 9zm44 2zm70 10zm25-4zm4 17zm-1 0zm-12-7zm-11-3zm-9 2zm-29 5zm-6-3zm-2-1zm-19 5zm-21-8zm-57 10zm-18 9zm30 2zm20-4zm16 1zm52-5zm29 6zm16-8zm7 4zm9-3zm11 9zm21-5zm-16 12zm-22 4zm-55-6zm-1 4zm-16 0zm-11 2zm-32-4zm-29-1zm-30 1zm-23 1zm20 15zm28-1zm64-5zm45 7zm8-5zm9 6zm38-6zm13-5zm-6 17zm-4-3zm-5-2zm-23 8zm-118 2zm-7-4zm-19-5zm-7 2zm-7 19zm42-3zm8-6zm30 6zm60 2zm-12 4zm-7 9zm-66-8zm-9 0zm-30 7zm-6-3zm-6 10zm32 7zm9-4zm41-5zm65 6zm11 1zm-11 11zm-4 1zm-64 2zm-10-3zm0-5zm-30-1zm-4 7zm-7-8zm-34 9zm25 11zm21 0zm61-2zm39-6zm28 8zm8-4zm10 16zm-76-1zm-4 1zm-42-6zm-24-3zm-20 2zm95 10zm-103 14z"/>
<path id="g7_6" d="M281 655zm27 10zm-4 5zm-25-1zm-3 10zm34-6zm3 13zm-10-1zm-49 9zm-79 6zm13 0zm53 6zm19-2zm50-8zm-4 12zm-7 0zm-42 4zm-32 1zm-22-2zm-75 9zm42 1zm72 3zm48 3zm7-4zm-1 20zm-44-3zm-45-8zm-34 11zm-2-1zm-44-10zm-1 3zm-1 5zm-12-3zm-22 5zm-7 8zm8-5zm26 0zm2 5zm30 0zm49-3zm3 7zm108-10zm-138 19zm-16-1zm-23-6zm-7 6zm-23-1zm-12 5zm-10-9zm90 12zm68 2zm6-3zm13 2zm24 19zm-8-9zm-49 8zm-20-5zm-91 5zm-27 1zm-15-9zm43 15zm3 6zm23-1zm10 1zm52 0zm44-6zm31 6zm-6 14zm-5-8zm-16 4zm-11-6zm-24 4zm-12 0zm-56-4zm-27-1zm-18 10zm112 10zm7 0zm3-1zm6 4zm32-10zm-8 12zm-59 7zm-27-1zm-71 2zm87 3zm31 4zm52 2zm-63 14zm-3-4zm-17 0zm-50 1zm-9 7z"/>
<path id="g7_7" d="M292 668zm-67-4zm40 26zm-26 5zm-91 9zm86-4zm-14 18zm-15-10zm-13 2zm-29 21zm33-6zm97 5zm19 1zm-29 5zm-139 10zm96 7zm15-2zm6-5zm9 5zm-198 25zm163 3zm37-1zm21-1zm-20 4zm-15 0zm-16 5zm-53 0zm-91 5zm-27-7zm-8 8zm51 10zm12 1zm39-7zm103 2zm12 5zm-22 7zm-31-5zm-1 2zm-18 3zm-28 0zm-1-5zm-31 3zm-7 0zm9 14zm12 0zm43 5zm47 12zm-19-7zm-154 3zm7 6zm30-1zm42 12zm-25 6zm-5 5zm-9-1z"/>
<path id="g7_8" d="M265 679zm7 3zm15-5zm4-5zm-9 19zm-53 11zm59-4zm7 5zm-6 13zm-12-3zm-36 1zm-67 9zm7 6zm51 6zm-88 18zm28-1zm16-1zm63 8zm-23-1zm-54 2zm-14 7zm-75 6zm19 5zm20-10zm55 3zm21 7zm62-3zm-5 6zm-8 9zm-3-2zm-2 1zm-5-1zm-16-8zm-26 1zm-22 10zm-31-3zm50 5zm81 17zm-15-1zm-42 6zm-13-11zm-21 8zm-13-7zm-56 4zm-18 0zm-3 5zm-2-1zm-12 13zm52-5zm25-2zm7 3zm64-6zm4 10zm-111 7zm16 12zm0-2zm77 8zm12-7zm-117 12z"/>
<path id="g7_9" d="M236 690zm34 8zm7 8zm35 3zm-50 2zm-154 8zm188 6zm-185 13zm54 7zm43 7zm78-1zm5 1zm-6 4zm-49 21zm2-2zm48 5zm-127 4zm-45 5zm72 7zm19 1zm19 6zm24 1zm-39 9zm-16-7zm-71 5zm-38 12zm26-1zm54-2zm51 5zm6-9zm-30 13zm-23 4zm-15 16zm78-4zm-24 9zm-70 1zm58 14z"/>
<path id="g7_10" d="M309 685zm-72 2zm-2 19zm2-4zm-90 28zm4-10zm22 5zm1 4zm84-2zm35 4zm-26 9zm-55 3zm-120 1zm27 8zm108-1zm-5 5zm-7 2zm-100 21zm110-6zm27 9zm-176 0zm3 18zm112-4zm14 0zm73-4zm-114 23zm-12-11zm-69 11zm32 7zm85 1zm66 15zm-52 0zm-24-5zm-45 17zm16-10zm16 5z"/>
<path id="g7_11" d="M301 659zm1 17zm-64 29zm13 14zm-6-6zm-81 15zm8-6zm74 1zm-82 14zm-17-2zm-61 17zm97-2zm23 4zm13 1zm34-5zm50 13zm-169 4zm-50-9zm-3 8zm97 8zm35 3zm48 10zm-16 3zm-29-3zm-89-7zm-4 14zm27 0zm19 1zm62 10zm-76 3zm0 6zm-8-1zm-58 2zm134 1zm2 18zm-135-2zm44 14zm2-5zm29 1zm48 3zm-67 17z"/>
<path id="g8_0" d="M333 716zm-2 0zm-3-3zm3 10zm16 6zm15-4zm2 3zm20 2zm-10 12zm-2-6zm-7-1zm-7 1zm-15 7zm-2-3zm-4-6zm-33 16zm2-4zm5 2zm17 3zm10 1zm2-6zm2 2zm2-4zm17 2zm5 7zm34-1zm12-3zm16 2zm12 7zm-8 4zm-8-5zm-1 7zm-12 3zm-4-10zm-17 4zm-11 6zm-19-10zm-4 9zm-6-8zm-9 2zm-1 6zm-17-5zm-22 2zm-4-3zm-2 19zm16-2zm2-5zm5 0zm1 3zm3 0zm1 3zm1-2zm33-4zm14 0zm3-2zm2 0zm2 5zm1 3zm1-1zm11-2zm2 2zm10 0zm34-9zm-21 14zm-18 0zm-5 8zm-4-9zm-8 10zm-14-4zm-6-1zm-1 0zm-8 1zm-9 1zm-2-2zm-2 0zm-4-1zm-1-5zm-10 4zm-4 3zm-5-1zm-2-4zm-16-2zm11 18zm1 3zm1-5zm5 6zm4-10zm38 11zm13-3zm1 0zm17-3zm8-5zm27 23zm-68-2zm-7-7zm-2 0zm-3 4zm-7 4zm-8-1zm-16 2zm-4-8zm-3 5zm-7 3zm-14-3zm-1-7zm20 18zm12 3zm1-6zm15 0zm0 6zm12 0zm28-3zm12-4zm6-1zm3 8zm1-3zm5 4zm41-2zm-63 13zm-5-1zm0-5zm-5 4zm-2-5zm-1 2zm-2 2zm-13-5zm0 5zm-5 3zm-14-2zm-8-4zm-1 1zm-2 1zm-3 2zm-5 3zm-18-3zm-9 15zm5-10zm8 1zm6-1zm10 6zm9-4zm10-2zm6 7zm1 1zm8-8zm1 9zm7-6zm7 7zm17-8zm15 7zm1 1zm1-6zm2-3zm1 4zm54 15zm-60-5zm-9 5zm-5-5zm-6 6zm-4-3zm-2-3zm0 1zm-11 3zm-8 2zm-11-1zm0-7zm-6 5zm-5-1zm-5 0zm-10-1zm-3 5zm-17-1zm-2-9zm-4 1zm4 19zm5-7zm4 0zm19 9zm7-6zm8-2zm1 3zm3 4zm2-3zm1 1zm11-3zm4 3zm1 3zm20-5zm8 2zm2-4zm1 8zm3-4zm3-7zm10 2zm2 4zm5-5zm1 1zm52 11zm-57-1zm-3 4zm-10 7zm-9 0zm-2-2zm-5-3zm-7-3zm-38-1zm-13 3zm-6 4zm-7-3zm-4-5zm-13 3zm19 11zm4 6zm30-9zm5 3zm2 6zm14-8zm10 8zm0 2zm3-6zm4 5zm1-1zm2 0zm13-4zm29 1zm2 3zm35-7zm-23 18zm-18-3zm-9 0zm-4 5zm-2-3zm-37 3zm-3-7zm-15 6zm-4 0zm-16 1zm-7-8zm0 5zm-6 3zm-1-2zm4 15zm2-8zm1-3zm5 4zm1 0zm3-3zm2 5zm3 1zm2 1zm8 1zm0 1zm1-2zm1-3zm2-3zm8 2zm2-4zm0 5zm34-1zm5 3zm2-7zm5 1zm5 3zm45 16zm-38 2zm-1-10zm-5 7zm-6 3zm-3-8zm-9 3zm0-1zm-22-1zm-4 8zm-8-8zm-7-2zm-3 0zm-2 6zm-2-2zm-11 0zm-2 6zm5 10zm16-3zm1-3zm3-2zm1 5zm2 3zm0 0zm0-5zm1 7zm12-5zm7 1zm2 3zm3-3zm2 1zm1 2zm11-1zm1-9zm9 9zm11 0zm10-3zm34 7zm-39 1zm-15 3zm-9-4zm-39 10zm-4-10zm-24-1zm53 16zm2 1zm10 1zm0 0zm11 1zm5-5zm5 0zm36 3zm7 14zm-19 1zm-2-3zm-39 7zm1 5zm5 6zm2-10zm4 1zm12-2zm4 0zm7 9zm23-9zm7 3zm-20 9zm-16 1zm-9 4zm-7-1zm-9 5zm18 9zm5 0z"/>
<path id="g8_1" d="M342 706zm24 11zm-6-5zm-22 6zm-10-6zm1 11zm3 8zm6-4zm0-6zm3-1zm2 2zm8 0zm9 2zm4-2zm13 1zm18 20zm-18-1zm-2 1zm-7-7zm-4 0zm-7 1zm-9 3zm-9-1zm-3 0zm-8-2zm-1 4zm-1-1zm-2-4zm-14 5zm-1 0zm-9 6zm2 1zm27 2zm16-2zm8 5zm1-9zm0 1zm27 7zm5 2zm4-5zm1 0zm18 6zm1-2zm20-4zm20 12zm-19 6zm-5-3zm-4-3zm-11-5zm-6 10zm-31-9zm-15 8zm-9-8zm-14 6zm-7-4zm-12 1zm0 0zm-17 2zm-1 2zm-16 14zm19-1zm8-5zm21 6zm4-6zm2 3zm4-6zm0 9zm5 1zm4-4zm2 2zm7-3zm14-6zm11 2zm1-2zm6 7zm6-3zm16 3zm9-6zm7 9zm-25 4zm-13-1zm-7 9zm-16-6zm-9 6zm-7 1zm-2-9zm-3 2zm-4 1zm-14 2zm-1 4zm-12-3zm-7-5zm-3-1zm-3 9zm-4-5zm-8 8zm5 1zm3 0zm16 0zm14 4zm7-5zm3 0zm44 0zm2 1zm3 6zm1 0zm3 5zm-7 0zm-3 7zm-12-6zm-1 0zm-9-1zm-6 5zm-6 4zm-3-7zm-8-4zm-11 7zm-1-4zm-7-1zm-15-2zm-3 4zm-9-1zm-1 4zm-2-5zm4 10zm25 2zm34 0zm3 0zm3 7zm5 2zm2-9zm3 0zm1 4zm1-5zm1 8zm10 5zm-12 2zm-7 5zm-20-3zm0 1zm-1 1zm-5-1zm0-7zm-25 6zm-3-5zm-4 2zm-6 2zm-4 6zm8 7zm29 4zm3-3zm9 0zm12 3zm0-4zm3-4zm10 0zm24-1zm2 2zm12 8zm-20 11zm-2-8zm-9 1zm-8 4zm-6-5zm-1 1zm-15-3zm-24 2zm-4 3zm-1 3zm-1 0zm-5-4zm-10 7zm1 5zm4 1zm3 2zm6-7zm4 2zm3 7zm21-1zm29-8zm16 1zm21 5zm22 5zm-11 4zm-23 0zm-11-2zm-3 4zm0 6zm-15-11zm-1 4zm-10-4zm-10 9zm-5 0zm-6-4zm-1-4zm-9 2zm-1 0zm-6 7zm-5 1zm-5-8zm-6 1zm-10 12zm6-3zm27 9zm8-4zm42 0zm1-2zm19 4zm6 1zm19 0zm-8 9zm-33 0zm-15-5zm-11 4zm-5-2zm-2 0zm-11-3zm-1 2zm-9-1zm-11-1zm-10 22zm11-4zm3-5zm7 4zm4 1zm2 5zm17 0zm5-4zm23-7zm10 3zm15 2zm27 16zm-26-7zm-4 3zm-18 5zm-15-9zm-15-1zm-1 3zm-5 6zm6 12zm7-3zm6-1zm3 4zm0-8zm4-1zm1 4zm7 5zm6-2zm30 2zm2-4zm25 1zm11-6zm-3 17zm-20 2zm-21 4zm0-2zm-2-9zm-12 10zm-1-4zm-23 1zm12 8zm2 6zm8-8zm5 2zm15 8zm17-7zm1 6zm23-4zm21 12zm-69-5zm-1 2zm-5 6zm-11-9zm33 23zm21-4zm7 7zm-27 2zm-11-1zm13 14zm1-5zm2 2z"/>
<path id="g8_2" d="M350 718zm-14-10zm3 21zm2-1zm1 3zm8-7zm3 4zm20 1zm16 12zm-7-3zm-13-6zm-11 6zm-5 3zm-4-6zm-3 0zm-1 0zm-1 1zm-12 4zm-1-4zm-1 5zm-5 13zm2-4zm8-6zm10 8zm18-1zm17 0zm16-3zm17 0zm4 6zm0 11zm-9 2zm-13-1zm-10-9zm-4 6zm-46-2zm-9 6zm-3-8zm-2 8zm-13-1zm-4 7zm4 1zm2 4zm15-2zm1 0zm20-6zm1 7zm26 2zm27-9zm1-2zm3 5zm7 4zm7-6zm2 6zm-5 13zm-12-9zm-14 5zm-2-3zm-8 7zm-8-9zm-4 1zm-5 5zm-8 2zm-10 1zm-12-10zm-7 0zm-8 4zm-7-1zm-16 18zm3-4zm10 6zm10-2zm0-6zm50 5zm18-8zm24 18zm-20-4zm-33 0zm-38 9zm-3-5zm-3-2zm-8 1zm-21 7zm1 2zm7 5zm3-6zm12 3zm8-4zm33 10zm13-9zm2 9zm2-2zm7-6zm3 0zm2 2zm15-1zm-17 20zm-17-5zm-14-4zm-11 1zm-2 3zm-16-4zm-3 5zm-12 9zm8 7zm1-2zm6-2zm10-7zm4 8zm3 3zm6-9zm6 1zm25 3zm1-3zm18-3zm0 5zm23 11zm-13 5zm-30-3zm-41-5zm-1 2zm-5-3zm-13 2zm0 8zm-14 8zm10 5zm6-8zm17-2zm1 2zm6 0zm1 3zm22 0zm11-2zm5 1zm3 4zm0-4zm23-3zm23 2zm5 16zm-15-7zm-1 2zm-5-1zm-14-1zm-16 9zm-9-9zm-1 0zm-3 2zm-1-3zm-5 11zm-10 0zm-7-10zm-2 7zm-20 3zm-8-2zm-7-6zm-6 7zm19 8zm7 0zm9-6zm16 0zm0 10zm8-7zm0 1zm4 5zm1-4zm9 6zm53-4zm-18 5zm-8 4zm-9-2zm-13 9zm-12-7zm-10 2zm-2-1zm-23 4zm-8-4zm-8 7zm5 0zm12 7zm6-7zm3 10zm23-7zm2 3zm4 4zm4-9zm8 6zm0 1zm8-2zm16 5zm6-4zm82-2zm-68 12zm-17 2zm-2-5zm-22-2zm-5 10zm-9-4zm-2-5zm-4 6zm-29-5zm-1 3zm-2 3zm8 6zm8 4zm18-2zm6-2zm3 3zm3-2zm3 1zm0-4zm12 11zm25 0zm19 1zm-8 8zm-28 0zm-9 2zm-13-9zm-2 6zm-1 2zm-1-5zm-8 3zm-10-7zm46 12zm13 7zm5 0zm59 13zm-20-5zm-15 7zm-3-10zm-28 10zm-40-3zm48 9zm7-2zm15 19zm-27-2z"/>
<path id="g8_3" d="M364 718zm-51 10zm11-4zm10 4zm19-7zm9 0zm17 4zm28 15zm-34 3zm0-11zm-6 10zm-13-5zm-11 6zm-14-10zm-3 1zm-13 15zm30 4zm4-8zm23 8zm28 2zm4-9zm12 7zm22-6zm6 11zm-11 8zm-2-9zm-33 5zm-44-3zm-9 1zm-28-4zm-1 9zm-8 11zm1-5zm15 4zm13 4zm0-11zm15 4zm13 4zm44-1zm9-1zm3-2zm11-3zm-23 19zm-14-7zm-21 7zm-3 2zm-8-9zm-27 1zm-8 6zm-5-2zm-11-2zm-1-1zm-11 5zm-5 0zm-6 9zm17 1zm3-2zm0 6zm9-10zm7 8zm4-4zm6-1zm20 7zm3-4zm2 0zm9-4zm10 8zm20 0zm13 11zm-33-3zm-22 0zm0 5zm-19-9zm-1 0zm-53 7zm2 8zm2 5zm48-1zm26-1zm12 8zm-18-3zm-2 5zm0-2zm-1-2zm-29 1zm-4 0zm-21 2zm1 16zm32-1zm12-1zm8 2zm11-7zm5 2zm3-4zm5 10zm8-3zm25 3zm-1 5zm-6 3zm-14-6zm-7 11zm-6-9zm-1 3zm-27-2zm-5 8zm-10-10zm-12 7zm-13-7zm-8 8zm14 9zm3-5zm15-1zm0 6zm6 0zm5 1zm19-6zm5 4zm27-4zm2 9zm2-5zm8 4zm11 6zm-65-3zm-1 2zm-1 8zm-1-3zm-9-1zm-13-5zm-8 7zm-4-2zm-5 3zm-3-1zm2 15zm7-4zm2 3zm6-4zm2 1zm13-1zm12 2zm30 2zm3-4zm7 1zm19 0zm3-6zm0 7zm0-5zm22-2zm15 10zm-50 7zm-19-3zm-7 7zm-3-7zm-4 3zm-8-4zm-21 5zm-16 4zm-9-10zm-3 4zm-2 7zm21 5zm11 3zm7-5zm5 1zm5 2zm2-6zm15 2zm18 1zm15-1zm16 7zm4-1zm15-1zm13 10zm-22-1zm-13-3zm-28 6zm-33-1zm-9-3zm-5 2zm-18 7zm31 1zm13 3zm1 3zm13-4zm3 1zm3 5zm15 1zm16 6zm-22 3zm-43-3zm17 15zm18-2zm38 0zm17 5zm-3 13zm-4-4zm-18 4zm-20-11zm-2 6zm12 7zm3 0zm20 4zm11 0zm12 15zm-6 2zm-21 0zm-2-1zm0 10zm16-6z"/>
<path id="g8_4" d="M341 703zm-6 6zm-14 11zm61 15zm-13 3zm-10-3zm-37 7zm-6-1zm-5-5zm-7 9zm11 6zm0-7zm4 7zm3-2zm1 6zm4-2zm14-5zm6-3zm11 8zm12 1zm3-5zm9 4zm19-7zm5 0zm22 10zm-2 3zm-3-3zm-17 10zm-5-8zm-40 7zm-7 0zm-10-4zm-13 1zm-6-5zm-12 0zm-4-1zm-5 2zm-9 19zm10 1zm3-3zm15-5zm5 9zm2-9zm10-1zm12 1zm12 1zm8 1zm10 5zm14 1zm3-5zm13-3zm3 3zm10 3zm9 10zm-61-1zm-20-2zm-16-2zm-34 10zm-7 5zm0-4zm5 0zm20 11zm8-10zm38 0zm12 0zm12 4zm3 6zm8-7zm-28 9zm-64 6zm-22 9zm17 6zm5 1zm5-2zm10-8zm2 9zm13-2zm7-4zm3 5zm12-3zm20 1zm38 9zm-4-4zm-34 10zm-28-9zm-21 10zm0-3zm-24 2zm-6-4zm-6 3zm-3 0zm-4 1zm4 4zm37 2zm7 0zm23 4zm18-4zm8 2zm3 9zm-15 5zm-71 2zm0-8zm-18 16zm11 5zm15-10zm9 0zm2 1zm21 1zm14 6zm27 1zm13 0zm26-9zm-18 22zm-51-4zm-24 2zm-7-4zm-18-2zm0 1zm-5 1zm-5 11zm12 3zm34-4zm25 6zm4-1zm3-7zm22 1zm22 3zm39 1zm-44 13zm-6-2zm-23-3zm-2-2zm-5 2zm-4-2zm-8 9zm-1-8zm-4 0zm-4 1zm-8 0zm-1 8zm-23 8zm9 2zm14-8zm6 4zm13 1zm1-5zm50 8zm3 1zm3 13zm-3-3zm-6-6zm-5 0zm0 8zm-11-7zm-10 2zm-41 3zm2 9zm27 2zm4 1zm28 2zm18 2zm1-7zm13 4zm-4 5zm-4 1zm-2 1zm-7 6zm-22-8zm-25 3zm-12 0zm-18-1zm44 17zm35 1zm6 10zm-20 12zm22-3zm24 5zm2 13zm-4 0zm-1-5zm-12 8z"/>
<path id="g8_5" d="M334 727zm7-7zm40 18zm-51 0zm-1 3zm-24 10zm25-2zm44 3zm12 0zm30-3zm1 11zm-21-2zm-6 0zm-7-2zm-22 0zm-28 2zm-38 20zm22-8zm3 1zm11 4zm1 4zm12-3zm4-6zm15 8zm12-7zm11-1zm4 5zm8 4zm0-7zm10 3zm-15 6zm-7 7zm-10-5zm-13 2zm-15 4zm-50-9zm2 20zm87-5zm-17 13zm0 0zm-3-3zm-20 6zm-66 1zm9 7zm30 3zm14 1zm85 8zm-25 6zm-11-4zm-30 2zm-19-1zm-17-2zm-12 3zm-5 0zm-4 3zm-16-9zm13 18zm26 4zm28-6zm3-1zm32 0zm24 9zm-34 1zm-3 8zm-47-8zm9 21zm3-1zm21-3zm11 1zm7-3zm24 5zm4 9zm-10-3zm-8 4zm-4 2zm-7-5zm-7-1zm-7 7zm-10 0zm-42-4zm0 14zm3-3zm26-3zm21-3zm63 11zm-58 9zm-2-6zm-7 5zm-26 6zm10 10zm7-2zm4-9zm9 2zm10 5zm19-7zm1 3zm37-2zm-2 17zm-2-3zm-13 0zm-43 6zm-35-7zm77 12zm3 1zm4 3zm2-5zm-31 30zm25 2zm16-3zm9 15zm-4-6zm-39 3zm2 6zm32 30z"/>
<path id="g8_6" d="M345 739zm-9-6zm-18-1zm2 21zm0-1zm8-2zm11 1zm1 4zm2-3zm5 3zm18-1zm18-9zm23 1zm31 8zm-15 10zm-18 0zm-1 0zm-3-8zm-7 4zm-17 2zm-5 0zm-9-1zm-13 3zm-15-4zm-5 7zm15 12zm15-7zm5 1zm6 0zm33 10zm-7-3zm-16 6zm-3-2zm-16 7zm21 11zm1-8zm-2 10zm-13 5zm-18-3zm-6 3zm-32 0zm-3-4zm-27 10zm0-9zm40 19zm45-6zm5 2zm-4 17zm-34-5zm-32 6zm-20-8zm0 13zm30 2zm6-6zm28 5zm73-1zm-59 17zm-11-4zm-5-3zm-58 19zm13-3zm6 5zm0 0zm17-1zm8-7zm18 0zm9 1zm8 5zm1-7zm16 9zm22 1zm-72 1zm-1 7zm-13-4zm-2 6zm-14-5zm4 8zm40 6zm26-1zm7-2zm18 6zm-27 13zm-20-3zm-19-3zm-12 8zm24 2zm26-1zm48 1zm14 11zm-10 1zm-4-1zm-7 0zm-34 4zm0 2zm-3-7zm0 9zm-17-10zm-9 8zm-18 0zm18 4zm4 7zm56-6zm7 4zm6-3zm19 20zm-24-8zm-37 9zm-8-6zm-7 0zm37 13zm6 3zm14-4zm20-4zm3-1zm43 0zm-92 12zm54 14zm-14 16z"/>
<path id="g8_7" d="M350 718zm-17 1zm31 8zm4-6zm10 6zm5 16zm-35-1zm-13 1zm-18-9zm-3 16zm17 0zm5-5zm71 2zm46 9zm-28 2zm-29 7zm-5 2zm-15-1zm-1-7zm-34 4zm-45 14zm8-8zm51 6zm39 1zm-2 13zm-3 2zm-97-6zm-1-3zm-3 19zm71-6zm7 6zm74 7zm-33-2zm-99 6zm3 9zm29 4zm3-4zm25 0zm-17 16zm-4-4zm-2-4zm-5 9zm-6 1zm-9-4zm-36 1zm49 13zm32-7zm30 2zm-6 12zm-23 3zm-20 2zm-52 13zm7-6zm12-1zm28 7zm95-4zm1 13zm-134 3zm-2-4zm-1 10zm4 2zm54 4zm47-5zm34 1zm-76 17zm-20-8zm-10 5zm-6 9zm66 2zm2 2zm35 1zm-7 8zm-82-6zm5 20zm5-1zm36-4zm-15 19zm-1 0zm14 6zm14 3zm9 8zm3 16zm2 1zm1-2zm2 0zm7 2zm10-4z"/>
<path id="g8_8" d="M363 725zm31 13zm-26-2zm-45-4zm2 21zm17-7zm9 3zm41 8zm-65 7zm-14-1zm-2 9zm7 4zm10-5zm64 6zm7-4zm8 0zm-50 14zm-15 4zm-4-3zm-9-1zm-8 1zm18 7zm12 4zm6-2zm27-3zm-13 12zm-3 6zm-44 2zm-13-8zm-11 1zm6 15zm4-3zm13-3zm27 5zm36 6zm10 2zm-23 9zm-38 6zm44 5zm19 4zm-33 6zm-68-5zm-8 1zm23 14zm35-2zm19 3zm12-4zm12 1zm10 11zm-12 5zm-86-1zm1 17zm19-9zm8 7zm11-6zm4 0zm5 4zm16-6zm43 10zm-31 12zm-51-9zm-15 1zm11 13zm4 4zm49 0zm9-4zm23-1zm6 12zm-31 6zm0 1zm-4-5zm30 18zm53 12zm-46-10zm-1-1zm-19 4zm20 18zm49 10zm-45 1zm-13-3zm18 11z"/>
<path id="g8_9" d="M331 709zm31 18zm37 37zm-49 8zm68 2zm3 4zm-18 13zm-77-7zm-35 16zm45-5zm52 1zm-88 15zm92 14zm-59 18zm52 6zm16-3zm-17 6zm-8 3zm-1 6zm-7-4zm-79 0zm28 16zm19-7zm49 15zm-22 0zm-7 2zm-32-2zm-5 13zm94 9zm-20 3zm-17-4zm-24-2zm-47 2zm13 14zm79-2zm31 15zm-28 6zm-70-8zm0 12zm16 3zm92 8zm-45 8zm-2 8zm35 17zm-8-3zm-2-7zm-30 4zm26 11zm53-4z"/>
<path id="g8_10" d="M348 728zm15-7zm-47 20zm0-1zm17 8zm79 2zm21 10zm-27 1zm-4 3zm-16-6zm-38 6zm-4-7zm-18 1zm1 13zm40 0zm5 2zm28-3zm40-2zm-49 19zm-33-7zm-28 14zm16 9zm5 0zm9 6zm-11-5zm-38 23zm61-1zm14 10zm-36 8zm-18 17zm-10-1zm-12-5zm25 20zm18 0zm-44 11zm2 3zm92 6zm22 9zm-75 0zm-37 1zm-3-4zm122 31zm-51-8zm-33 0zm78 19zm-49 5zm-2 11zm48 40zm-7 8z"/>
<path id="g8_11" d="M318 717zm0 9zm46-4zm29 16zm-2 2zm-40-4zm-32 14zm19 3zm8 0zm-5 3zm74 12zm5 14zm-69 2zm-53 17zm66-5zm17 1zm47 2zm-93 7zm-12 5zm-21-5zm-8 4zm43 14zm29 3zm6-9zm50 17zm-65 3zm-15-8zm-4 1zm-21 16zm11-6zm5 9zm51-2zm2-8zm-45 16zm-13-2zm-22 5zm-12 15zm28-7zm9 1zm-2 17zm-5 1zm-9-4zm-15-6zm24 15zm51 2zm14-3zm9 21zm-51 8zm92 15zm-65 1zm7 12zm32-7zm-16 17zm-22 4zm30 6zm-14 9zm45 8zm2 15zm-1 5zm-21-8z"/>
<path id="g9_0" d="M617 652zm3 5zm12 3zm-5 11zm-13-6zm-2 1zm-1 2zm0 0zm-6-2zm-5 1zm-9 2zm-2-8zm-4 4zm0 5zm-9-1zm-31 12zm1 2zm5-9zm32 9zm1-10zm2 4zm1 5zm5-3zm17 1zm14-5zm4 3zm-5 6zm-12 5zm-4-1zm-2 0zm-14 5zm-17-9zm-6 1zm0 7zm-4-8zm0 3zm-6-3zm-1 7zm-2 0zm-7-2zm-5 5zm-4-5zm-1 2zm-48 0zm26 14zm2-6zm5 6zm3-9zm1 9zm1 1zm5-1zm11 0zm20 0zm3-4zm0 4zm1-1zm27-5zm21-3zm4 3zm-1 20zm-1-5zm-7 5zm-7-10zm-5 6zm-17 4zm-1-10zm-7 1zm-12 4zm-6-5zm-9 10zm-3-4zm-1 0zm-22-2zm-1 4zm-7-2zm-5 3zm-21 10zm4-3zm3 6zm17-1zm3-7zm48 8zm13-3zm13-2zm4-3zm17 2zm1 3zm2 2zm4-10zm1 20zm-2 0zm-6 3zm-1-6zm-4 1zm-4 1zm-9-6zm-7 2zm-3 0zm-3-3zm-7 3zm-8 0zm0-2zm-3 2zm0 1zm-11-3zm-7 10zm-15-1zm-8-9zm-4 3zm-14 2zm-3-3zm-1-1zm-11 6zm-21-3zm6 18zm40-5zm4-3zm8 3zm1 1zm15-1zm13 5zm1-4zm6 2zm9 2zm2-3zm1-7zm15 4zm4-2zm13-1zm5 7zm3-5zm4-1zm3 7zm10-2zm0-6zm6 12zm-7 0zm-5 7zm0-1zm-1-4zm-4 2zm-1 0zm-3-1zm-9 2zm-22-7zm-11 7zm-6-6zm-6 0zm-7 9zm-4-9zm-1 7zm-5-1zm-17-5zm-3 4zm-17-2zm-2 0zm-8 7zm-23-7zm-9-2zm0 6zm-4 2zm-15 0zm-22 9zm0 3zm21-9zm6 1zm24 4zm1 3zm9 1zm1-5zm5 0zm22-1zm7 4zm5-2zm0-2zm3-2zm0 4zm6-2zm0 2zm2-1zm11 5zm16-8zm2 0zm2-2zm1 4zm6 5zm1-6zm0-1zm8 8zm9-9zm12 7zm2 2zm18-2zm9-1zm4-3zm5 1zm3-5zm24 19zm-6-3zm-6-3zm-23 5zm-3 5zm0-2zm-22-8zm-11 9zm-13-1zm-5-3zm-1-2zm-6 1zm-7 0zm-9 0zm-2 6zm-1-7zm-11 3zm0-6zm-1 1zm0 0zm0 6zm-7-5zm-15-3zm-1 2zm-6 0zm-1 1zm-12 7zm-6 1zm-1-9zm-12 2zm-8-2zm-13 6zm-13-8zm-5 1zm-11-1zm-3 8zm-13 1zm-29 14zm10-4zm11-2zm11-4zm2 1zm1 3zm7 5zm14-2zm0 3zm0-3zm5-5zm3 5zm1 0zm10-4zm0-3zm5-1zm12 2zm1-2zm2 8zm1-1zm14 4zm4-2zm1-2zm1-1zm2 3zm1 2zm15-7zm13 7zm5-1zm0-6zm4 0zm6 2zm4 5zm2-8zm1-1zm7 7zm6-7zm3 0zm8 7zm5-6zm0 7zm1 1zm4-4zm1 2zm3-6zm0 8zm2-9zm0 1zm3 1zm14 5zm10 0zm17-5zm12-4zm5 6zm1 4zm17-1zm-3 7zm-20 5zm-3-5zm-11 5zm-3-4zm-10 0zm-4 6zm0 0zm-2-6zm-3 6zm-2-11zm-1 2zm-4 8zm-6 0zm-20-4zm-6 2zm-7-1zm-9-2zm-13 1zm-5-6zm-8 3zm-6 6zm-14-6zm-12-1zm-7 7zm-4-6zm-2 0zm-4 3zm-2-2zm-9-3zm-10 4zm-8 4zm-7-6zm-1 2zm0 4zm-7 2zm-1-9zm-1 6zm-2 3zm-16-5zm-14-2zm-26 2zm-6-3zm-6 9zm14 11zm12-2zm26-2zm0-3zm15-3zm9 8zm4-3zm0-3zm7 5zm11-4zm9 2zm2 0zm4 3zm1-5zm9 4zm3 3zm4-8zm2 5zm1 3zm4-9zm5 5zm9 2zm3 2zm1-2zm9-9zm2 5zm1-2zm6 7zm0-8zm5-2zm20 5zm1-5zm6 0zm3 6zm2-6zm1 0zm2 7zm14-4zm18-1zm6-1zm0 4zm3 6zm3-3zm12 0zm7 2zm4-7zm8 8zm4-6zm2 1zm-3 10zm-7-4zm-8 3zm-8 4zm-3-2zm-11 2zm-5-2zm-11-2zm-19 0zm-7 8zm-1-3zm-2-5zm-11-1zm0 7zm-5-3zm-3 4zm-11-7zm-1 5zm-3-4zm-2 4zm-8-4zm-4-1zm-19 7zm-17-6zm-12 5zm-9 2zm-2-7zm-3 2zm-13-6zm-1 10zm-11-3zm-2 4zm-1-4zm-1 3zm-6-2zm-5-7zm-1 5zm0 5zm-7-7zm-20-1zm-31 8zm31 10zm16-3zm1-2zm7-4zm4 1zm16-1zm2 7zm6 4zm6-11zm9 9zm8-5zm3-1zm8-2zm18 4zm5 2zm0 2zm3-1zm2-1zm8-5zm3 6zm7-7zm37 2zm14 3zm1-4zm5 3zm5-2zm4 6zm19-6zm0 2zm5 2zm2-1zm1-3zm15-2zm8 4zm5-4zm5 1zm-9 12zm-13 8zm-2-2zm-3-6zm-4 0zm-4 7zm-2-1zm-19-4zm-3 7zm-1-6zm-21 3zm-22 2zm-21-10zm-2 7zm-5-7zm-6 6zm-11-6zm-3 1zm-1 5zm-6-2zm-3 1zm-4-4zm-5 5zm0-6zm0 11zm-17 0zm0-11zm0 8zm-1-6zm-26 3zm-7 0zm0 0zm-4 3zm-11-4zm-14-4zm-8 7zm7 11zm20-1zm1 6zm0-9zm14 3zm20 3zm1-1zm9 2zm12 1zm7-10zm38 8zm0-7zm1 7zm5-7zm1 10zm5-4zm10 2zm10-2zm1 3zm1 1zm6-11zm4 1zm1 0zm4 7zm2 2zm2-10zm12 5zm16 2zm14 4zm1-9zm12-2zm8 3zm11 6zm-60 4zm-7 10zm-1-1zm-2-3zm0 4zm-1-4zm-3-5zm-4 7zm-9-1zm-25 0zm-6-4zm0 3zm-6-5zm-6 6zm0-7zm-1 8zm-11-2zm-5-2zm-22 5zm-2 1zm-3 0zm-3-4zm-7-4zm-1 2zm-3-5zm-2 7zm-4 4zm-1-6zm-19-2zm-9 7zm-8-6zm-8 5zm-21 0zm-16-6zm42 15zm19 2zm8 1zm1-2zm3 1zm0 3zm4-11zm4 2zm15 7zm8-7zm6-1zm8 1zm2-1zm5 2zm16 4zm8 0zm4-7zm3 11zm3-4zm9 3zm1-2zm11-7zm1 3zm10 2zm6 3zm4 1zm3-4zm2-6zm1 1zm4 6zm23 0zm2 4zm5-3zm10-2zm6-5zm8 11zm0 4zm-8 7zm-9-8zm-8 6zm-2 2zm-3-4zm-1 1zm-8-6zm-17 0zm-3 8zm-3-5zm-11 6zm-2-7zm-8-4zm0 10zm-2-10zm-2 10zm-1-5zm-20 1zm-13-1zm-2-5zm0 10zm-1-9zm-24 4zm-3 5zm-2-2zm-2-4zm-3 5zm-1-9zm-7 3zm-8 2zm-2-4zm-4 8zm-4 1zm-4-1zm-2-1zm-9-8zm-1 10zm-1-1zm-3-8zm0 1zm-2 0zm-3 3zm-1 4zm-9 1zm-3-6zm-12-4zm-5 12zm7 6zm1-1zm26 6zm33-1zm0-4zm3-1zm3-1zm14 7zm4-5zm1 1zm0 0zm1 1zm14 2zm3-2zm2 3zm7-11zm2 5zm3-4zm9 0zm3 9zm4 0zm6-6zm2-1zm15 2zm3 2zm2 1zm2 2zm10-10zm3 7zm7-2zm1 2zm2-1zm6-2zm6 6zm0-6zm10 4zm11-4zm-3 10zm-31 4zm0 5zm-5-10zm-6 3zm-2 3zm-11 0zm-10-2zm-5 3zm-6-1zm-6-3zm0-3zm-5 5zm-13 2zm-3-8zm-14 8zm-4-1zm-3-4zm-2 7zm-20-4zm-11-4zm-6 4zm-3-6zm-5 11zm-2 0zm-1 0zm0 0zm-2-11zm-8 6zm-3 5zm-1-11zm-17 1zm-6 6zm-3-6zm-6 2zm-3 14zm12-3zm7 2zm1-4zm9 2zm0 4zm10-1zm15 4zm7-2zm1-2zm4 5zm2-7zm11 7zm2-5zm1-1zm3 5zm19 1zm2 0zm3-5zm7-5zm8 5zm12 6zm2 0zm8-5zm23-5zm3 6zm5-4zm20-1zm1 9zm-6 3zm-12 0zm0 4zm-2 5zm-11-1zm-9-9zm-3 1zm-8 2zm-2 0zm-3 3zm-6 3zm-3-1zm-7-8zm-1 4zm-17 1zm-11-2zm0 1zm0 4zm-9-7zm-2 1zm-3-3zm-1 9zm-6 2zm-2-10zm-1 6zm-11 1zm-1 3zm-8-6zm-8 3zm-7-3zm-9-3zm-5 0zm-13-1zm49 21zm6-3zm7-6zm6 5zm6-5zm1 9zm13-9zm17 6zm1-5zm1 3zm3 5zm12-1zm20-9zm10 7zm6-1zm9-4zm-8 16zm-17-6zm-6 3zm-1-2zm-1 6zm-2-3zm-2 3zm-6-5zm-7-1zm-2-1zm-4 11zm-6-11zm-2 11zm-3-5zm-4 4zm0-6zm-4 5zm-4 0zm-20-9zm-16 3zm-5-3zm-9 10zm-21-2zm-15-4zm4 19zm19-7zm11 4zm10-8zm11 0zm14 8zm1-2zm2-5zm4 0zm1 3zm5-1zm1 5zm2-2zm5 2zm1 3zm1-9zm4 5zm27-3zm-61 8zm-1 4zm-5-1zm0-3zm-14 1zm-15 10zm-3-6z"/>
<path id="g9_1" d="M623 651zm2 4zm1 1zm-4 13zm-7-5zm-11 7zm-13-7zm-1 6zm-25-2zm-1-2zm-21 14zm12 0zm4 1zm14-9zm7 4zm19-2zm0 7zm13 2zm8 0zm10-8zm11-1zm-17 16zm-4-1zm-3 2zm-10 4zm-2-4zm-20 2zm-1 0zm-1-5zm-14-2zm-3 1zm-2 7zm-6-9zm-5 3zm-11-4zm-9 2zm-1-1zm-19 19zm13-8zm5 5zm0-1zm9-3zm32 5zm7 0zm1 3zm5-3zm13 2zm3 1zm1 0zm14 7zm-9 6zm-8-1zm-4-6zm-4 6zm-2 2zm-1-8zm-4 2zm-3 3zm0-7zm-23-1zm-6 1zm-4 6zm0 2zm-3-4zm-35 4zm0-9zm-14 11zm0-6zm-10 6zm-4 8zm14-5zm2 2zm1 0zm8-2zm1 1zm3-2zm2 6zm10-1zm4-3zm4 5zm1-6zm1 7zm2-8zm4 9zm10-3zm24 2zm0 1zm4-9zm6 2zm0 5zm16-5zm6 2zm1-2zm7 4zm4 3zm4-1zm-1 8zm-5 4zm-19-1zm-4-4zm-5 7zm-6 0zm-2-9zm0 3zm-6 0zm-14 2zm0-3zm-28-4zm-17 5zm-8 5zm-1 1zm-7-6zm-6 0zm-6 4zm-1-5zm-4 5zm-19 10zm8 3zm8 1zm2-9zm8 9zm8-10zm2 1zm26 7zm7-1zm11-2zm16 5zm8 0zm15-2zm3-2zm0 3zm6-4zm8-1zm6 5zm4-1zm14-2zm25 15zm-7-5zm-13 3zm-1-1zm0 0zm-1-5zm-33 0zm-5 5zm-30-4zm0 3zm-2-5zm-1 4zm-16-4zm-6 0zm-5 3zm-2 1zm-1 6zm-1-9zm0 5zm-5 1zm-8-8zm0 5zm-13 5zm-5-1zm0-4zm-14-4zm-2 4zm-1 5zm-8-10zm-39 22zm19-10zm5 11zm16-1zm13-5zm5 2zm11-4zm8 1zm7-2zm14-2zm0 0zm2 9zm3-9zm4 11zm6-2zm1-4zm1-5zm1 5zm1-2zm8 6zm24 0zm3-9zm11 7zm2 4zm5-5zm13 4zm6-9zm17 8zm1-9zm19 6zm7 4zm14-7zm-3 19zm-17-8zm-16 7zm-18-8zm-3 5zm-24-4zm0 2zm-5 4zm-8 0zm-1-2zm-2 1zm-5 3zm-3-2zm-3-6zm-2 6zm-5-8zm-6 4zm-13 5zm-7-2zm-11-5zm-14 2zm-32 3zm-1-1zm-11-1zm-3 0zm-11-3zm-2 4zm-6 5zm-1-1zm-16-8zm-14 6zm-5 3zm7 7zm2 5zm5-9zm7 0zm8-1zm9 1zm7 6zm24-7zm1 9zm7 1zm3 0zm2-7zm4 1zm11 4zm10-9zm9 9zm25-2zm1-1zm2 2zm0-5zm7 7zm5-10zm0 6zm5-1zm31-2zm5-1zm25 3zm9 1zm5 3zm24-7zm3 15zm-1-2zm-4 4zm0 0zm-6 0zm-19 4zm-6-10zm-6 6zm-9 3zm-3-8zm-7 3zm-4 6zm-6 0zm-53-9zm-10 1zm-3 8zm-6 0zm-4 0zm-13-8zm-4-3zm-7 1zm-10 8zm0-1zm-13-8zm-1 8zm-23-5zm-3-2zm-2 1zm-3 8zm-9 1zm-4-8zm-8 3zm-2-5zm-2 0zm-1-1zm-7 5zm-6-5zm-14 4zm-2 3zm-6 6zm3 7zm5 1zm13-3zm1-5zm15 2zm8 6zm5-7zm11 5zm3-5zm4 3zm54-2zm6-1zm4 0zm12 9zm1-5zm11-4zm4 8zm15-4zm0 5zm7-6zm10-5zm22 2zm15-1zm10 1zm27 9zm3 0zm15-10zm2 3zm-11 8zm-9 6zm-12-6zm-2 8zm-6-5zm-6 6zm-13-5zm-7 5zm-12-9zm-3 7zm-8-2zm-7 0zm-8-2zm-3 2zm-3-1zm-8 5zm-1-8zm-3-1zm-6 11zm-1-3zm-5 2zm-4-1zm0-5zm-9 5zm-2-4zm-2 1zm-14 0zm-3-1zm-15-2zm-1 5zm-11-7zm-5 4zm-12 2zm-9-6zm-21 7zm-4 3zm-12-10zm-19 5zm-15-4zm-21 10zm48 0zm13 4zm2 2zm10 4zm19 0zm8-3zm4 3zm1-7zm2 2zm5-4zm11 7zm1-3zm13 4zm11-6zm6 7zm2 0zm14 1zm32-1zm12-5zm19-1zm2 0zm0 5zm11-3zm28-6zm3 7zm18 1zm-19 12zm-5-2zm-8-5zm-2 9zm-2-7zm-9 8zm-8-10zm-1 8zm0-6zm-3-2zm-2 10zm-1-11zm-1 9zm-11-5zm-3-2zm-3-1zm-6 9zm-4 0zm-3-10zm-2 6zm-3-3zm-1 1zm-23 1zm-2 3zm-5 3zm-27-2zm-10-6zm-21-3zm-2 1zm-3 8zm-18-6zm-4 6zm-8 2zm-21-3zm-9-2zm-1 1zm-6 1zm-13 3zm-3-4zm54 8zm7 8zm15-4zm2-1zm3-6zm1 4zm31 4zm2 2zm10-9zm0-1zm10 4zm2-3zm1 8zm13 0zm12-8zm3 10zm5-2zm1-2zm1 1zm15 1zm4-7zm4-1zm6 6zm20-7zm5 5zm7-4zm8-1zm19 10zm12-3zm-26 9zm-4 6zm-8 0zm-26-1zm-1 1zm-2-4zm-6-4zm0-2zm-5 1zm-1 6zm-3-3zm-3 7zm-11 0zm-7-9zm-8 6zm-9-1zm-3-6zm0 1zm-7 6zm-9 3zm-16-11zm-1 4zm-11 4zm-3-8zm-15 9zm-25-5zm0-4zm-3 6zm-11-6zm-7 0zm-12 1zm-1 8zm-14 0zm-14-8zm31 15zm10-3zm12 0zm1 1zm7 9zm3-8zm1 0zm8 8zm3 0zm6-3zm4 0zm2 3zm10-1zm12-5zm6-2zm5 2zm22-3zm1 1zm2 1zm1 6zm1-3zm9-5zm4 5zm7-6zm3 7zm0 2zm5-1zm1-7zm2 4zm0-1zm3-4zm38 0zm16 1zm14 6zm6 0zm8-7zm-16 19zm-5-5zm-1 3zm-9 1zm-3 2zm-15-4zm-31-1zm-18-4zm-1 10zm-4-10zm-41 11zm-4-4zm-13 1zm-4-5zm-6-1zm-1 8zm-7-10zm0 7zm-13-4zm-9 5zm-26-6zm-1 7zm-8-2zm21 9zm0 1zm37-3zm6 1zm1 7zm12-9zm6 7zm1-8zm9 7zm1 1zm16-5zm0-3zm4 5zm7 1zm8 1zm5-3zm7-3zm4 2zm5 5zm0-4zm0 1zm6 4zm2-7zm4 0zm27 5zm2-3zm8 5zm13-2zm1-4zm11 1zm-9 13zm-9 4zm-3-1zm-1 0zm-3 1zm-30-8zm-11 7zm-13-3zm-1 5zm-4-6zm-10 3zm-1-7zm-6 2zm-4-2zm-8 8zm-9-5zm-12-3zm-23 5zm-3 3zm-2 3zm-23-9zm-1 4zm-1 4zm0-2zm-3 1zm-3-6zm-2 5zm-10-1zm-4-3zm-1 4zm-10-1zm-12 9zm17-3zm10 1zm11-2zm4 2zm3 4zm9 0zm11 4zm6-6zm14 5zm6-3zm2 2zm9-1zm9 2zm1-6zm3-1zm9 6zm9-2zm8-4zm15 5zm1 0zm10-7zm4 7zm3 4zm1-6zm5 6zm26-2zm-24 3zm-3 4zm-5-4zm0 5zm-10 1zm-2-5zm-2 3zm-3 7zm-1 0zm-1-1zm0-6zm-1 7zm-4-8zm-5 7zm-22-4zm-10-6zm-18 3zm-9 1zm-3 6zm-2-1zm-23 1zm-27-9zm-11 10zm-2-11zm-2 11zm31 1zm3 3zm2-2zm2 4zm14-3zm1 3zm19 5zm1-4zm6-1zm3 4zm3-7zm10 8zm3 1zm32-7zm11 1zm1 2zm2 0zm17-7zm9 5zm-47 18zm-24-1zm-26-7zm-4 8zm-5-9zm-2-1zm-17 9zm-24-6zm-38-4zm11 15zm8 0zm12 4zm5 2zm4-3zm6 0zm1 2zm3-6zm7 9zm12-7zm17 2zm23-3zm28 1zm-43 17zm-8-3zm-7-3zm-22 6zm-20-6zm-15 0zm26 9z"/>
<path id="g9_2" d="M604 644zm-4 10zm10 0zm10 5zm-3 4zm-1 4zm-13 4zm-1-10zm-2 2zm-1-3zm-4 5zm-15 3zm-45 14zm19-2zm15 2zm40-5zm4-2zm1 1zm1-3zm10 9zm-10 4zm-49 0zm-14 2zm-17 4zm-2-1zm-7-3zm-13 2zm-17 17zm20-5zm9-4zm13 3zm9 1zm19 4zm41-9zm3 2zm2 13zm-1 4zm-1-1zm-2 1zm-11 1zm-8-4zm-2-5zm-28 9zm-2-6zm-4-1zm-21-2zm0 6zm-10 1zm-4 1zm-1-1zm-10 2zm-6-3zm-1 1zm-7 1zm-1-1zm-26 16zm8 0zm3-9zm8 2zm2 4zm2-8zm10 6zm0-5zm2 1zm3 9zm7 0zm3-8zm1-3zm2 11zm22-9zm3 3zm0 3zm9 3zm13-8zm2-1zm12 6zm4-6zm8 8zm28-2zm3-2zm8-5zm-2 12zm-16 6zm-11-6zm-3 4zm-13 2zm-10 1zm-12-7zm-5 7zm-13-4zm-3 2zm-6 4zm0-10zm-2 2zm-13-1zm-4 10zm-6-4zm-3 0zm-2 2zm-4-2zm-4 4zm-17-5zm-3 10zm32 0zm3 6zm4-4zm24 4zm3-9zm14 6zm11 3zm1-4zm17-2zm14-3zm3 3zm11-2zm9-2zm0 21zm-34-1zm-6-5zm-20 8zm-31-11zm-11 11zm-5-4zm-20-3zm0 0zm-2 7zm-2-10zm-28 3zm-6 0zm-3 2zm-27 13zm9-4zm5 5zm12-1zm10-1zm0 4zm15 0zm1-7zm7 1zm2 5zm4-4zm4-4zm9 0zm4 6zm21 2zm12 2zm8-4zm11 3zm4-9zm24 8zm23-9zm3 9zm14-9zm2 5zm8-5zm5 6zm1-4zm30 21zm-22-10zm-8 1zm-8 3zm-39-3zm-16 0zm-3 9zm-23-5zm-4-3zm-5 0zm-2 6zm-7-6zm-5 7zm-1-1zm0 1zm-6-7zm-14 6zm-23 0zm-19 2zm-5-4zm-4 1zm-25 3zm-41 7zm9 3zm19-8zm14 9zm17 0zm0 0zm3-5zm27 1zm8 4zm3-1zm5-5zm5-2zm2 6zm1 3zm4 0zm3-5zm7 4zm7-4zm13-2zm2 6zm15 1zm1-3zm11-1zm0-5zm1 6zm4-5zm1 0zm4 2zm2 2zm15 1zm19-3zm22 6zm0-4zm9 1zm2-1zm5 0zm14-2zm1-3zm1 4zm-12 16zm-15-6zm0 0zm-6 4zm-3-7zm-8 5zm0 5zm-5-10zm-25 6zm-1 4zm-9-6zm-12-5zm-7 1zm-6 9zm-6-9zm-24 6zm-11-1zm-11-4zm0-2zm-15 3zm-13 7zm-2-4zm-1 0zm0 0zm-1 1zm-2 3zm-26-2zm-6 2zm-2-7zm-9 5zm-5-3zm-1-1zm-3-1zm-12 3zm-2-3zm-10 2zm-12-5zm-6 3zm-1 20zm20-10zm0 3zm18 2zm8-5zm4 9zm30-2zm5-7zm13 3zm6 2zm10-2zm1-3zm5 0zm2-1zm0 10zm9 0zm1 1zm6 0zm27-9zm15-1zm8 3zm6 1zm2 1zm14-2zm0 4zm3-5zm3 8zm2-9zm0 9zm2-3zm3 3zm10-1zm11-9zm10-1zm3 6zm11 5zm6-3zm7 4zm-14 10zm-18-4zm-8-3zm-1 8zm-11-2zm0 2zm-21-8zm-7-2zm-21 2zm-6-3zm-6 5zm-12 2zm-7-7zm-3 2zm-18 6zm-2-1zm-4-4zm-8 1zm-12 4zm-10-2zm-7-1zm-1 3zm-22-1zm-5-1zm-1 2zm-12-5zm-32 20zm10-8zm21 0zm9 4zm1 0zm18 2zm14-7zm0 9zm10-5zm0 3zm25-6zm9 8zm9-3zm8 2zm2-5zm48 0zm13 5zm6-2zm8-5zm16 2zm32-3zm-8 12zm-4 4zm-12-3zm-8-3zm-1 4zm-3 6zm-46-2zm-19-6zm-46 0zm-1 4zm-10 2zm-6 1zm-4-4zm-8-5zm-9 11zm-23-5zm0 2zm-15-4zm-41 8zm40 10zm1-10zm26 4zm21-1zm8 6zm4-7zm11 7zm9-6zm16 0zm34-3zm6 9zm2-8zm14 10zm16-11zm23 3zm1-2zm1 8zm0-6zm28 8zm-6 6zm-25-2zm-7 0zm-20 5zm-6 1zm-2-9zm-1 0zm-7 11zm-26-5zm-7-1zm-2 1zm-16-6zm-5 2zm-9 9zm-3-4zm-16-5zm-15-1zm-3 3zm-10-3zm-11 4zm-4-2zm-4 2zm-17 4zm-8-3zm-1 0zm0-5zm-3 9zm-28 11zm2-1zm7-8zm1 2zm5 0zm24 0zm29 0zm7 7zm30-5zm26-2zm1 8zm16-2zm0-1zm4-6zm1 2zm8 8zm5-7zm12 4zm2-1zm7 1zm16 3zm24-2zm24-1zm-12 11zm-2 4zm-6-3zm-28 2zm-2-8zm-2 5zm-5-4zm-12 5zm-9-7zm-19 5zm-44-6zm-6 0zm-12 0zm-1 3zm-12 4zm-19-7zm-3 2zm-9 3zm-6-1zm-30 14zm15 0zm10-4zm8 3zm0 6zm2-4zm7 3zm3-4zm2 3zm7-9zm2 6zm1 4zm0-3zm6-2zm16-2zm9-3zm6 3zm19 0zm6-3zm7 4zm3-2zm2 4zm13 3zm2 1zm1 1zm4-11zm1 2zm28 8zm6-10zm4 10zm8-6zm10 9zm-17-1zm-8 9zm0-4zm-2-1zm-7-3zm-6 10zm-3-5zm-4-2zm-3 3zm-4-2zm-1-1zm-4 2zm-18-4zm-12 6zm-4 3zm-3-7zm-16 2zm-11-2zm-2 0zm0 6zm-3-7zm-13 6zm-9-9zm0 7zm-3-3zm-11-2zm-3-2zm-58 20zm47 0zm3 1zm4-5zm18 7zm8-9zm11 5zm4 2zm10-8zm10 8zm5-5zm1 2zm1 0zm10 4zm3-8zm5 2zm6-2zm3 1zm9 8zm4-8zm5 7zm15-7zm0 2zm2 0zm0-3zm6-2zm12 0zm29 22zm-19-3zm-41 3zm-15-6zm-10 1zm-9-5zm-2 3zm-5 2zm-7-1zm-2 1zm-13-4zm-1 1zm-5 0zm-10 9zm-53-4zm-10-7zm60 13zm42 0zm18 2zm1 3zm1-1zm7-3zm7 0zm0 6zm16 2zm1-4zm0 1zm6-6zm4 8zm-13 13zm-28-10zm-17 9zm-13-4zm-10-1zm-9-1zm-2 0zm-5 4zm-6-2zm-3 0zm-1-2zm-4 6zm-8-5zm-16 11zm42-2zm3 1zm32 2zm0-3zm2 10zm16-9zm-35 10zm-8 2zm-14-1zm-5 10zm-33 0zm5 4z"/>
<path id="g9_3" d="M641 642zm-10 17zm-19 1zm-4 11zm-2-4zm-19 2zm-7-5zm-28 19zm23-2zm16-3zm5-6zm0 5zm17 3zm2-8zm4 6zm13 5zm-13 10zm-2-3zm-2-4zm-8-2zm-7 3zm-7 7zm-17-4zm-11 0zm-26-4zm-2 4zm-28 9zm49 3zm27 0zm2 4zm13-7zm5 8zm5-11zm13 20zm-10-7zm-2 6zm-2 1zm-23 0zm-6 0zm-5 0zm-9 3zm0-2zm-2-3zm0 0zm-18-4zm-7 1zm-3 5zm-12-3zm-4-5zm-2 4zm-25 14zm8 2zm9-5zm16-3zm4 10zm8-10zm2 9zm7 0zm14-9zm22 2zm9 9zm3-8zm3-2zm11 9zm21 13zm-7-2zm0 0zm-8 0zm-16 2zm-4-6zm-6 3zm-25-3zm-4 5zm-35-5zm-3 3zm-4-8zm-13 11zm0-2zm-7-1zm-48 15zm38-10zm1 5zm2 5zm36-4zm8 4zm19-4zm1 2zm8-1zm58-5zm3-1zm0 18zm-10-7zm-6 4zm-3 1zm-5 5zm-5-9zm-13-2zm-1 9zm-3 0zm-17-3zm-1 3zm-3-2zm-19 0zm-1-6zm-5 10zm-4 0zm-3-8zm-27 7zm-2-10zm-14 2zm-45 15zm10 4zm3-7zm3 1zm8 5zm6-8zm15 5zm39 0zm2 3zm7 3zm10-10zm4 2zm3 6zm7-5zm2 0zm26 4zm44-7zm9 2zm5-1zm5-1zm1 4zm2 4zm1-4zm4 6zm-12 12zm-26-10zm-18 10zm-31-8zm-11 4zm-3-5zm-27 6zm-12-6zm-3 1zm-1-3zm-9 6zm-5 0zm-23 3zm-27-5zm-6-3zm-7 3zm0-1zm-6 6zm-2-2zm-5-7zm-8 11zm-29 11zm27-3zm12-6zm4 7zm6-4zm7 3zm10-2zm26-2zm14 4zm3-6zm4 4zm9 5zm6-6zm2-4zm20 11zm4-10zm5 9zm8-1zm1-5zm1 3zm19 1zm11-3zm0-1zm23 2zm5 1zm22 0zm1-3zm7 6zm13 0zm2-10zm11 9zm-4 14zm-28-8zm-6 0zm-2 3zm-12-5zm-10 9zm-3-2zm-5-1zm-64-3zm-1 1zm0 1zm-4-5zm-2 9zm-28-5zm-20 4zm-22-5zm-5-4zm-3 4zm-26 4zm-11-3zm-20 2zm77 10zm9 3zm16-3zm58-3zm8 8zm7-10zm2 2zm2-1zm9 10zm1-8zm32 6zm7-6zm15 2zm21 1zm10-4zm2 4zm-11 17zm-24-11zm-16 4zm-2 4zm-14 3zm-12-9zm-2 9zm-21-3zm-2-8zm-2 6zm-9 3zm-13-9zm-20 8zm-16-4zm-16-3zm-46 1zm-15-2zm-18 0zm-22 0zm-5 23zm13-4zm1-4zm27 3zm14-6zm6 9zm33-5zm3 2zm11-4zm2-2zm31 10zm13-1zm3-6zm9 3zm4-5zm3 7zm2-3zm4 5zm11-1zm15-7zm14 1zm19 6zm14-5zm7 5zm24-6zm-8 9zm-14 4zm-32-1zm-32-3zm0 1zm-4 7zm-2 1zm-10-3zm-12 5zm-20-10zm-1 10zm-3 0zm-52-8zm-12-3zm-2 11zm-1-4zm-2 2zm-9-4zm-6 1zm0-6zm-33 4zm-27 10zm35 6zm1-7zm3 9zm14 1zm2-7zm38-2zm21 7zm12-5zm22 1zm5 4zm18-7zm24 3zm5-2zm0-2zm10 5zm4-2zm12 4zm0 2zm4-1zm2 2zm0-8zm29 8zm-21 11zm-2-1zm-4-2zm-4-4zm-1 7zm-2 1zm-10-2zm-29 0zm-68 0zm-5-8zm-1 3zm-7 5zm-7-8zm-4 5zm-22-1zm-5 5zm-12-4zm-20 0zm-13-3zm-4 3zm-9-2zm-11 7zm53 9zm12-8zm6 7zm26-2zm40-1zm6-2zm1 6zm10 1zm36-3zm2-6zm42 11zm22 5zm0-3zm-12 4zm-5 4zm-5-7zm-22 4zm-15 2zm-32-7zm-19 4zm-24 3zm-7 0zm-12-1zm-10-5zm-1 2zm-7 4zm-7-8zm-2 11zm-12-4zm-23 1zm-18 3zm-33 5zm45 2zm4 5zm10-10zm26-1zm12 3zm26 5zm8 1zm5-6zm0 1zm12 0zm33 6zm15-1zm5-2zm3 1zm2 1zm1-7zm17-1zm9 5zm20-4zm-21 13zm-4 3zm-20-1zm-6 2zm-5-7zm-13 6zm-33-4zm0 3zm-5 5zm-5-4zm-23 4zm-19 1zm-5 0zm-15-9zm-4 3zm-12 3zm-1-4zm-19 0zm7 15zm13 1zm35 2zm5 1zm3-1zm25 0zm1-10zm34 5zm30 2zm9 4zm24-10zm-9 11zm-10 0zm-6 3zm-15 0zm-11 1zm-3-1zm0-3zm-5 1zm-12 2zm-8 5zm-17-7zm-43 0zm-2 2zm-5 4zm-8-2zm-2 3zm-44 2zm13 12zm8-2zm40-5zm3 1zm35 0zm19-4zm2 1zm12 8zm2-4zm16-5zm14 9zm11 2zm-17 1zm-32 3zm-4 1zm-11 4zm-35-3zm-13 2zm-21-5zm0 6zm-35 11zm36 2zm32-8zm1 4zm3 1zm25 3zm27-9zm4 3zm6 0zm-63 11zm-40 4z"/>
<path id="g9_4" d="M609 658zm24-5zm-9 14zm-15-3zm-5 2zm-4 5zm-8-2zm-16-1zm-40 9zm56 6zm20-2zm1-4zm10 1zm0 9zm-21 6zm-6-9zm-25 8zm-47 0zm-3 0zm-16 13zm22-7zm3-1zm11-1zm8 4zm25 0zm21 1zm9 0zm3-1zm3-4zm2 0zm6 9zm-3 11zm-1 0zm-13 0zm0-1zm-11-5zm-1-2zm-5 8zm-51-3zm-1-1zm-9 6zm-12 0zm-18-10zm-1 11zm33 12zm31-10zm7 8zm17-6zm9 0zm18 7zm6-4zm2-6zm4 3zm0 3zm-2 14zm-2-3zm-3-5zm-14 1zm-6 0zm-6-1zm-6 7zm-22 1zm-9-3zm-6-2zm-4 1zm-12 2zm-8-3zm-8 2zm-11 1zm-10 5zm-57 10zm53-4zm2 2zm16 0zm10 4zm2-3zm8-8zm5 9zm1-2zm2-1zm3 2zm29-7zm16 10zm3-11zm2 1zm11 7zm3-1zm3 0zm4-4zm16-1zm-1 17zm-6-6zm-25-1zm-33 7zm-4-5zm0-1zm-6 3zm-2 2zm-2 3zm-11-3zm-14-3zm-1-1zm-1 2zm-1 4zm-36 0zm0-6zm-7 8zm-7-9zm-21 0zm-4 1zm-21 21zm9-8zm18 1zm21 0zm30 2zm25 4zm25-1zm21-6zm10 8zm8-11zm9 2zm7-1zm7 8zm21-8zm1 10zm2-6zm0 1zm10-3zm24 16zm-13-1zm-14-2zm0 2zm-17-1zm-6 6zm-4-10zm-3 5zm0-1zm-32 0zm-2 4zm-3-9zm-2 6zm-18 4zm-13-10zm-4 7zm-4 2zm-45 2zm-12-6zm-20 2zm-29 14zm0-6zm1 2zm10 4zm27-5zm40 2zm15-1zm16 1zm10 2zm103-6zm11 4zm2 3zm7 9zm-9 2zm-8-2zm-6 1zm-15-4zm-20 6zm-28 0zm-9-1zm-11-3zm-10-3zm-29 3zm-11 5zm-7-6zm-26 1zm-18-3zm-21 9zm-33-8zm-23-1zm-18 1zm-20 17zm20-5zm15-2zm2 7zm32-7zm18 8zm36-5zm3-2zm14 9zm3-2zm6-5zm10 5zm6-7zm11 7zm3-7zm2 9zm2-5zm7-2zm15 5zm4-7zm37-1zm51-1zm28 7zm-11 8zm-13 7zm-1 1zm-5-5zm-1 2zm-1-6zm-9-2zm-17 7zm-7-5zm-5 9zm-10-8zm-1 6zm0-9zm-13 2zm-44 0zm-3-2zm-12 3zm-21 5zm-11-2zm-4 1zm-3-2zm-5-3zm-6-1zm-22-1zm-10 7zm-10-2zm-9 3zm-9 1zm39 7zm4 0zm2 4zm3-6zm7 4zm9 2zm0 1zm13-2zm41-2zm6-4zm0 9zm7-1zm34 0zm8 0zm1-1zm6-8zm2 9zm20-1zm5 1zm15-6zm5 5zm1-1zm1-5zm8-1zm6 9zm0-10zm1 15zm-11 4zm-2 1zm-27 0zm-11-6zm-1 3zm-14 2zm-44-4zm-4 8zm-6-9zm-3 4zm-12 4zm-1-2zm0-3zm-16 5zm-4-10zm-11 11zm-3-1zm-5-8zm-27 1zm-19 1zm-3 3zm-20 1zm-3-3zm-15 10zm35 7zm1-4zm24-2zm4 5zm9 2zm4-9zm4-2zm31 9zm11 0zm2-8zm27 8zm31-7zm22 1zm2 4zm21-1zm5-4zm12 3zm9-5zm-1 16zm-8-4zm-12 7zm-14-1zm-5 1zm-26-2zm-2 6zm-8-11zm-14 3zm-22-3zm-22 3zm-9 7zm-3-1zm-1-8zm-4 6zm-9 1zm-1-2zm-9-5zm-43 0zm-4 6zm-19 4zm-2 6zm82 5zm5-1zm10-3zm15 0zm5 0zm10-2zm0 4zm19-5zm7-1zm15 5zm3-2zm17-5zm5 1zm19 15zm-1 6zm-11 1zm-16-2zm-18 0zm-1 2zm-7-9zm0 0zm-15 4zm-1 2zm-8-1zm-3 0zm-10-6zm-1 2zm-17 6zm-18-6zm-1 3zm-3 3zm-46-8zm-3 5zm-37 8zm38 8zm8-2zm28 2zm4-2zm31-6zm5 4zm30-2zm3-4zm6 5zm6 1zm23 0zm1-4zm15-2zm17 23zm-11-11zm0 10zm-27-8zm-25 2zm-26 2zm-17-4zm-4 7zm-15-9zm-2 2zm-1 4zm-20 5zm-10-4zm-4 1zm-9 0zm-3 3zm-12-8zm-18 15zm19-2zm8 5zm10-2zm24-4zm47 0zm10 8zm3-1zm31-5zm6-1zm23 3zm-25 9zm-2 6zm-8-2zm-5-4zm-1 1zm0-5zm-38 3zm-2 3zm-25 5zm-27-9zm-18 12zm4 3zm5 0zm17-3zm15-1zm0 3zm24 0zm3-2zm16-2zm4 2zm8 3zm17-3zm10 1zm-8 9zm-18 10zm-3-3zm-18-3zm-14-3zm-4 2zm-6-3zm-16 9zm-49-5zm40 8zm28 8zm-12 7zm-63 8z"/>
<path id="g9_5" d="M629 661zm-8 10zm-2-8zm-10 8zm-3-10zm28 19zm-16 14zm-11-8zm-24 2zm0 5zm-10-9zm-10 2zm-7-2zm-28 11zm-4 8zm11 3zm1 0zm28-9zm1 9zm16-3zm12-2zm19 3zm1 1zm5-1zm5 5zm-20 8zm-24-1zm-30-2zm-26 4zm-9-5zm4 14zm1 3zm38-6zm10-3zm20-1zm31 8zm1 8zm-8 5zm-9-7zm-2 4zm-7-5zm-26-1zm-10 7zm-1-2zm-18-3zm-15 5zm-19-4zm-10 1zm-5-4zm-1 11zm-33 11zm29-8zm16 3zm1 4zm21-9zm13 7zm57-5zm29 1zm-54 9zm-15 2zm-33-1zm-18 4zm-40 1zm-14 8zm10 7zm10 2zm4-11zm14 5zm3 5zm33-2zm1 0zm15 3zm33-7zm5 3zm3 1zm22-5zm6 1zm4-1zm18 5zm17 3zm-3 9zm-15-1zm-59-7zm-67 10zm-4-6zm-9-4zm-7 7zm-12 3zm-3-1zm-7-7zm-3 3zm-5-3zm-6 7zm-8 2zm-10-5zm-5 5zm-30 9zm36-7zm6 4zm8 0zm38 6zm14-9zm1 3zm15-4zm1 2zm2-1zm27 6zm23-3zm3-4zm12 7zm21-7zm0 9zm7-6zm20-3zm9 0zm1 2zm9 1zm22 15zm-36 1zm-1-4zm-9-4zm-6 8zm-19 1zm-16-5zm-15 5zm-4-8zm0 6zm-3-7zm-45 3zm-24-1zm-21 0zm-4 8zm-2-7zm-2 5zm-21 1zm-36 2zm-5-1zm-13-2zm14 15zm2-9zm5 5zm20-7zm10 2zm19 5zm4 4zm17 0zm2-6zm16 1zm20-5zm12 10zm1 0zm6 0zm6-7zm35-2zm36 7zm6-4zm4 3zm18 1zm5-9zm33 1zm-40 20zm-4-7zm-9-2zm-6 0zm0 9zm-46-2zm-62-4zm-2 8zm-16-7zm0-3zm-27 7zm-10 2zm-4-8zm-25 8zm-24-10zm-24 6zm0-5zm20 15zm3 3zm0-7zm5 7zm7-4zm16-1zm0 5zm11 0zm41-4zm32 7zm9-1zm10-9zm13 7zm12 1zm2-3zm12-5zm16 5zm15-3zm11 6zm1-8zm4 7zm39 15zm-33-8zm-80 0zm-33 9zm-5-8zm-2-3zm-8 3zm-21-3zm-5 10zm-1-2zm-15 3zm-30 1zm35 3zm11 2zm10-3zm4 6zm38 0zm1-8zm26 11zm2-4zm1-5zm29-1zm3 9zm10 0zm10 1zm1-5zm13 2zm19-5zm2 7zm-34 7zm-5 6zm-3-9zm-2 5zm-29 0zm-12 2zm-4-7zm-20 2zm-19 3zm-5 0zm-71-3zm-9 2zm-11 15zm6-3zm28 4zm8 1zm47-8zm19-3zm1 11zm12-10zm8 1zm26 0zm19 0zm11 1zm37 11zm-10 2zm-20 0zm-27 1zm-7-4zm-59 2zm-2 8zm-68-5zm-7-2zm-12-2zm-12 4zm-8 10zm40 6zm10-9zm2-1zm18 7zm5 3zm10 0zm4 1zm57-2zm15-2zm6-7zm0 2zm15-1zm1 10zm6-4zm13-5zm13 6zm4 5zm-36 5zm-3 0zm-9-2zm-6 5zm-6 0zm-8-3zm-2 4zm-16-7zm-39-1zm-24 8zm-8-7zm-17 5zm-29-1zm29 7zm20 8zm60-9zm0 1zm28 0zm6 7zm5-8zm43 2zm-27 9zm-16 6zm-28-3zm-29 2zm-11 4zm-9 2zm-16-6zm-2 4zm0-7zm-1 0zm-30 1zm-35-2zm57 18zm15 1zm36-6zm7 4zm4 4zm7-6zm2 5zm33-4zm-41 11zm-10 2zm-22-2zm-14 7zm-4-8zm-23 10zm3 6zm29-3zm39 8zm-57 6zm-10-2zm-24 17z"/>
<path id="g9_6" d="M622 645zm-13 14zm10-1zm11 3zm-29 9zm-5-9zm-16 9zm-6 8zm16 1zm31 0zm1 4zm-36 9zm-25 3zm-24 11zm6-6zm1 6zm66 1zm1-10zm9 19zm-24 2zm-11 1zm-40-3zm-36-4zm-15 8zm48 2zm3 2zm21 2zm0-6zm2 8zm54-5zm5 19zm-14-8zm-28 4zm-10-1zm-30 6zm-14-3zm-14-4zm-7 3zm-2-2zm-1-5zm-5 3zm-50 14zm7-4zm24 0zm38-1zm28 10zm23-1zm3-2zm32 11zm-14 3zm-9 0zm-7 2zm-5-3zm-43-1zm-7-2zm-2 0zm-21 3zm-8 1zm-35-6zm-26 16zm53-5zm60 4zm1-6zm4 4zm3 7zm41 0zm11-1zm3-9zm19 0zm11-1zm2 1zm5 4zm38 2zm-11 16zm-8-4zm-18 2zm-7-8zm-25 9zm-51-9zm-127 9zm-1-6zm-25 10zm4 7zm8 1zm7-5zm9 6zm17-9zm7 4zm60-6zm16 11zm9-5zm2 1zm6 1zm3-7zm7 8zm10-3zm31-2zm0 5zm23-6zm42 2zm9 18zm-8-8zm-13 6zm-19-5zm-5-3zm-19 6zm-106 1zm-4-7zm-35 5zm-1 2zm-30 3zm-51-10zm-23 0zm29 17zm2 0zm37 1zm7-1zm4-4zm24 4zm3 0zm30-4zm36 1zm3-1zm62-1zm40 3zm12-4zm2 4zm4 3zm-37 7zm-19 9zm-22-7zm-30 7zm-2-4zm-16-7zm-41 7zm-12-7zm-41 3zm-40 3zm-6 1zm-4-2zm1 8zm26 5zm13-3zm13 0zm2-3zm9 8zm23-5zm43-2zm5 6zm3-6zm5 8zm12-4zm40-4zm2 8zm4-1zm8 0zm32-6zm9-1zm6 7zm8-3zm-1 10zm-8-1zm-66 7zm-19 1zm-13-5zm-3-1zm-3 4zm-37 2zm-53-4zm-12-6zm0 0zm-19 10zm-12-6zm-17 13zm17 6zm34-2zm10-6zm3 7zm28-3zm29-4zm18-3zm23 1zm3 3zm11-3zm34 1zm34 3zm5-1zm3 3zm-50 14zm-11-9zm-23 11zm-4-6zm-51-3zm-2-2zm-9 8zm-5-4zm-19 0zm-26 1zm-24 14zm33-2zm1-5zm14 8zm5 2zm1-4zm60-1zm2 6zm1-5zm7-1zm8-4zm5 7zm4-1zm34-3zm15-3zm25 20zm-44-7zm-19 1zm-37 4zm-55-4zm-2-1zm-54 0zm12 12zm50 4zm13 4zm4-7zm35-3zm36 2zm47 3zm-27 12zm-35 2zm-24-4zm-2 6zm-4-8zm-1 3zm-17 1zm-49 6zm-38-8zm-19 4zm-1 10zm28-4zm1 7zm20-5zm25 6zm27-1zm36 0zm18-2zm22 0zm6 5zm2-11zm8 0zm-3 14zm-3-2zm-5 6zm-13 2zm-7-2zm-28 5zm-7-8zm-15 0zm-15 5zm-24-3zm-44-1zm18 10zm9 1zm19-1zm62 5zm8-5zm20 6zm-24 10zm-3-5zm-47 0zm-49 9zm-12 7zm22 6zm36-3zm3 7zm-43 3zm-4-4z"/>
<path id="g9_7" d="M623 642zm-4-3zm-5 17zm-4 10zm-12 1zm-4-1zm-21 11zm5 2zm39 3zm-10 13zm-17-1zm-19-6zm-4-3zm-43 4zm-1 8zm20 9zm8-5zm30-3zm24 8zm-21 10zm-17 2zm-11-9zm-52 4zm-5 0zm-8 10zm17-1zm7 3zm17-1zm34 1zm54 5zm-44 6zm-71 4zm-31-6zm17 21zm12-6zm2 2zm0 3zm17-2zm36-4zm40 1zm11 0zm6 4zm4-8zm12 17zm-48-2zm-26-4zm-81 1zm-7 2zm-2-1zm-8 21zm10-5zm31 3zm7-2zm96-4zm22 1zm26 12zm-37 7zm-2-2zm-8-6zm-37 0zm-3-1zm-5 8zm-72 1zm-1-6zm-1-1zm-1 7zm-94 8zm9-1zm22 2zm15-6zm17 8zm10-2zm14-6zm60 3zm17-3zm69 4zm35 12zm-21-1zm-7 6zm0-8zm-18 4zm-28-1zm-27 2zm-35 1zm-15-8zm-42 9zm-56-3zm-44 11zm7-5zm12 4zm1 5zm56-6zm97-3zm64 6zm22 1zm41 7zm-33-1zm-4 0zm-7 2zm-26 4zm-13-4zm-10 0zm-8 3zm-81-3zm-22 6zm-1-5zm-8-2zm-19-2zm-71 21zm27-4zm7 5zm48-3zm85 0zm10-6zm72 8zm3-7zm33 8zm9-8zm-2 20zm-33-5zm-1 5zm-12-6zm-25-4zm-23 2zm-4 8zm-43-1zm-80-10zm-18 5zm-27 2zm62 14zm17 0zm4-6zm35 2zm26 0zm15-4zm10 4zm23 6zm36-11zm13 11zm6 12zm-2-1zm-28-6zm-7 7zm-7-9zm-3 5zm-16-1zm-71 3zm-62-9zm-6 12zm68 6zm21-2zm12 3zm83-5zm12 14zm-3 2zm-16 4zm-19-5zm-18 2zm-49 4zm-28-5zm-9 1zm-34-6zm-56 21zm37-10zm59 2zm34 9zm10-4zm28-2zm6-5zm12 7zm1-5zm15 4zm18 10zm-16 1zm-9 3zm-49-7zm-74 6zm-28-3zm-14 8zm5 3zm21-2zm37 5zm3-3zm4 2zm0 4zm15-4zm18-2zm27 4zm25-2zm7-2zm8 3zm6-4zm-102 19zm-26-8zm-10 0zm-2 4zm-1 2zm-17 11zm43-5zm16 3zm31 10zm-35 9zm-6-1zm-4-1zm-5-5zm-6-2zm-50 5zm-12-4zm74 11zm9-1zm-32 12zm-11 21z"/>
<path id="g9_8" d="M611 657zm4 6zm-20 5zm-36 7zm19 2zm9-1zm4 4zm7 2zm17-5zm16 1zm-63 10zm-3 12zm25 4zm8-7zm19-1zm7 1zm5 15zm-57-4zm-65 7zm-17 8zm17-3zm27 3zm66 5zm1-6zm3 2zm24 16zm-8-1zm-24-7zm-3 11zm-58-1zm-3-2zm-44 8zm27 0zm2 2zm88-4zm16 2zm-15 15zm-31 4zm-31-5zm-13 2zm-28 0zm-5-1zm-29 1zm-7-2zm-14-3zm82 10zm0 8zm53-3zm62 11zm-9 0zm-12 2zm-46 0zm-33-4zm-93 8zm-55 6zm31 1zm32 0zm20 5zm1-4zm53-3zm17-2zm13 8zm73-5zm1-2zm8-2zm1 10zm-15 8zm-7-1zm-13-5zm-95 0zm-28 10zm-19-6zm-29 6zm-17-8zm-73 17zm44-3zm4 4zm10-9zm1 8zm10-8zm25 4zm20-1zm17 4zm5 2zm15-7zm44 2zm48 0zm10-4zm20 4zm-48 12zm-76 5zm-23-2zm-17 0zm-8 0zm-11-1zm-14-2zm-6 18zm22-9zm3 10zm45-3zm27-7zm76 5zm25-2zm25 5zm-18 8zm-41-1zm-4 1zm-6 3zm-43 1zm-82-2zm-2 0zm-14-4zm22 18zm1 1zm5-8zm16-1zm156 6zm-18 14zm-27 2zm-50 0zm-1-9zm-43 8zm-13-9zm-6 1zm-6 5zm9 9zm4 6zm11-2zm51-5zm29 1zm62 0zm-47 19zm-97-4zm-6 3zm-73 7zm67-5zm67 1zm20 6zm36-2zm-21 12zm-55-4zm-49 1zm-26-1zm0 1zm3 11zm3 8zm18-5zm6 2zm26 2zm52-1zm26-2zm-20 8zm-3 10zm0-1zm-7 1zm-26-7zm-7 1zm-37-5zm-12 16zm36 7zm12-7zm33 5zm8-8zm-22 22zm-4-10zm-8-1zm-33 10zm-49-2zm-19-8zm-5 7zm78 18z"/>
<path id="g9_9" d="M618 656zm-44 15zm-47 7zm10 0zm10-5zm89 10zm-22 12zm-20-6zm-13-2zm-18 8zm-5-5zm-48 8zm96 13zm-2 6zm-32-5zm-22 9zm37 0zm24 10zm-89 9zm-4 2zm-11-9zm-5 7zm-13-1zm-23 15zm70-1zm5-7zm5 9zm12-3zm11-1zm38-5zm23 19zm-43 1zm-10 1zm-12-10zm-9 5zm-49 2zm-10-4zm-17 11zm38 1zm69 5zm50-5zm6-1zm1 1zm-68 13zm-29 2zm-45-3zm-10-4zm-42 4zm-3-3zm-34 9zm-25 9zm21 2zm73-1zm72-8zm6 6zm36 7zm-48 5zm-14 0zm-59-3zm-102 6zm-7 1zm77 13zm1-3zm9 0zm46 0zm7 2zm62-3zm41-1zm8 2zm44 1zm-13 10zm-2 0zm-62-7zm-9 4zm-24-3zm-6 9zm-56-6zm-8-1zm-26 4zm-98 11zm50 1zm59 4zm26-10zm12-1zm3 9zm10-3zm7-5zm4 10zm3-8zm62 4zm28-2zm31 12zm-24 3zm-6-5zm-54 7zm-29 1zm-79-7zm-13-3zm-15 3zm-46 2zm69 6zm47 6zm5 4zm24-2zm24-5zm5 0zm11 6zm-11 10zm-16 2zm-10 0zm-75-5zm-32-3zm-57 2zm90 16zm67 4zm8-7zm52 8zm-58 4zm-13 7zm-123 8zm25-4zm13 3zm44-1zm43-1zm2 4zm10 2zm43-5zm50 0zm-37 10zm-19 8zm-1-4zm-9 3zm-15-2zm-6 2zm-37 1zm-20-8zm-44 7zm96 7zm29 4zm6 1zm28-5zm-37 7zm-120 11zm50 4zm18 5zm74-6zm-81 10zm-105 5zm79 8zm34 3zm34-3zm-47 13zm-24 6z"/>
<path id="g9_10" d="M600 658zm14-6zm3 3zm2 5zm-7 6zm0-4zm-15 0zm-17 4zm-17 10zm1 0zm41 6zm-31 25zm12-3zm6 1zm23-9zm-51 13zm-8 0zm-14 10zm-24-9zm-17 3zm64 18zm-85 17zm43 1zm13-4zm77 19zm-157 13zm23-2zm30 1zm114-8zm1 5zm-121 15zm-26 0zm-34-4zm0 5zm44 11zm9 0zm49 0zm22-4zm52 1zm11-2zm5-2zm41 4zm-150 12zm-93-4zm-26 2zm52 11zm5 3zm15 1zm53-4zm41-2zm48 15zm-29 8zm-29-11zm-19 6zm-84 4zm-33 1zm-4-3zm-32 3zm25 8zm8-4zm7 4zm52 1zm57 2zm58-9zm14 6zm35 7zm-5 5zm-44-7zm-22 0zm-46 0zm-6 1zm-138 9zm10 6zm31 1zm23-5zm55 6zm39 5zm45-9zm14 14zm-11-4zm-42 11zm-136-9zm-31 13zm131-3zm30 7zm40 2zm29-6zm-64 9zm-24 4zm-10-4zm49 28zm-11-2zm-9 1zm-67 5zm-55-7zm-15 3zm-1 10zm25 8zm114-8zm0 3zm55-2zm-77 11zm-23 0zm-4 3zm72 11zm-66 16zm-43 5zm29 8zm18 0zm33-7zm10-2zm-52 15zm-26-3zm-17 3z"/>
<path id="g9_11" d="M611 692zm-36-3zm-2-4zm-24 2zm-1 19zm20-8zm18 3zm-4 7zm-70 11zm4 8zm82-7zm19 14zm-94 0zm-41 8zm-5-8zm59 20zm7-2zm51-7zm33 20zm-25 1zm-1-4zm-6-3zm-17-1zm-127 21zm77-2zm11-3zm7 5zm38-7zm72 13zm-36 1zm-42-2zm-16 3zm-47-7zm-16 1zm-5 1zm-1 2zm-17 17zm74-1zm54-7zm13 19zm-104-1zm-40-6zm-75 15zm35-1zm33 6zm40-2zm20-6zm17 2zm21-3zm69 11zm30-7zm-4 13zm-51 3zm-17-6zm-21 1zm-20-1zm-39-1zm-48 1zm-12-1zm-16 5zm-11 3zm6 9zm123 3zm8-4zm33-2zm5 8zm44-10zm-23 22zm-48-2zm-17 0zm-150 9zm31 1zm25 2zm35 2zm4-5zm131 2zm21 6zm-172 1zm-6 5zm-2 0zm-66 0zm-11-2zm96 8zm93-2zm43 18zm-14 2zm-128-1zm-14-4zm-58-2zm0 21zm39-7zm35 1zm63-4zm33 7zm31 0zm10 14zm-85-9zm-43 5zm-10 6zm-32-11zm-2 21zm25-7zm1 7zm1 0zm3-7zm76 4zm4-6zm2 9zm38-7zm-32 14zm-80 6zm-12 1zm-23-2zm-19 1zm33 3zm73-1zm31 1zm-77 21zm-71 6zm5 5zm43-7zm27 12zm-11-1zm-27 2z"/>
<path id="g10_0" d="M778 574zm-59 18zm43 13z"/>
<path id="g10_1" d="M789 597zm-32 7z"/>
<path id="g10_2" d="M732 579zm66 16zm-87 4zm38 1zm23 6z"/>
<path id="g10_4" d="M747 583zm8-3zm36 18zm-22-5zm-42 12z"/>
<path id="g10_7" d="M788 591zm-36 13z"/>
<path id="g10_8" d="M712 582z"/>
<path id="g11_0" d="M843 545zm0 0zm-1-5zm-18 5zm-16 13zm6-3zm9 4zm2 0zm62 16zm-3-10zm-6 5zm-3 2zm-12 2zm0-10zm-10 5zm-3 0zm-5 1zm-10-1zm-1-4zm0 7zm-12 1zm-6-8zm-12 22zm6-2zm0-2zm18-5zm1 2zm5-1zm5 7zm1-8zm0 4zm10 4zm4-8zm12 9zm3-5zm1-2zm27-2zm1 2zm3-1zm6 6zm4 0zm8 0zm27 13zm-4 1zm-5-3zm-1 0zm-9-4zm-1 2zm-19 1zm-1 2zm-12 2zm-2-9zm-2 9zm-4-2zm-4 1zm-14 0zm0-8zm-6 4zm-3 0zm-5 0zm-5-3zm-1-1zm-3 2zm-1-4zm-1 4zm0-1zm-4 3zm-1 3zm-24-8zm-3 0zm0 2zm-7 0zm10 16zm0 3zm5-5zm5-3zm2 1zm4-1zm12 3zm1-2zm3 2zm34-1zm13-4zm3 1zm3 2zm8 5zm0 1zm5-1zm5-2zm6-3zm1 8zm0-1zm7-7zm22-1zm-25 10zm-4 5zm-1 0zm-1-2zm-2 0zm-17 8zm-9-5zm-3-4zm-5 2zm0 6zm-22-3zm-5 3zm0 1zm-13-4zm-18 4zm4 6zm38 4zm6-6zm5 0zm2-2zm1 6zm1-1zm3-6zm0 11zm1-7zm0-1zm3 5zm1 2zm0-8zm7 2zm2 3zm4-7zm9 4zm1 5zm1-7zm5-2zm15 3zm-19 13zm-13 3zm-1 3zm-2-2zm-4-1zm-31 1zm-13 3zm-19-6zm-2 4zm-2-1zm42 4zm44 4zm44 5zm2 0zm-2 8zm-106-1z"/>
<path id="g11_1" d="M827 538zm7 0zm11 12zm-18 0zm-11 4zm11 7zm63 8zm-1-1zm-5 2zm-4-2zm-1 3zm-23 2zm-4 1zm-38-3zm-4 3zm-10 13zm13-11zm0 5zm0 6zm1-3zm3-6zm21 0zm2 8zm18-9zm12 6zm4 3zm19-8zm3 0zm4 7zm9-6zm-2 13zm-35 4zm-10-7zm-3 8zm-2-1zm0-3zm-12 6zm0-10zm0 8zm-1-1zm-16-5zm-23-3zm11 21zm1-4zm13-2zm6 2zm3 0zm5-1zm20 7zm23-11zm3 4zm4-1zm2-2zm1 1zm4 0zm6 4zm0 4zm0-4zm3 0zm6 4zm11-9zm2-1zm11 7zm6-4zm7-3zm23 15zm-53 8zm0-3zm-6-3zm-7-2zm-3 3zm-16-1zm-46 1zm-25 0zm16 6zm1 2zm1 5zm20-7zm0 10zm6-6zm2 1zm5 3zm1-3zm20 3zm15-2zm12 1zm40 13zm-6-2zm-37 5zm-8-2zm-6-4zm-4-4zm-13 6zm-7 2zm-3 1zm-1-5zm-7 0zm-1 3zm-3-2zm-4 8zm10 9zm10-8zm40-3zm31 3zm16-2zm-112 22z"/>
<path id="g11_2" d="M830 562zm33 0zm33 6zm-2-2zm-1-1zm-3 7zm0-5zm-33 5zm-40-7zm-2 3zm0 6zm-6-10zm-7 21zm2-6zm9 7zm21-3zm1 4zm4 0zm1-5zm11-1zm10 6zm1-10zm7 2zm7 4zm9 1zm5-2zm1 3zm13-2zm2-3zm6 1zm18 17zm-1-1zm-5 2zm-29-1zm-4-2zm-6-7zm-34 9zm-9-1zm-3-1zm-1 0zm-6-7zm-11 10zm-2-2zm-14-7zm23 15zm4 6zm1-9zm0-2zm2 10zm2-9zm1 3zm26 7zm9-9zm7 0zm9 2zm6-3zm3 6zm7-3zm10 4zm14-8zm2 7zm18-5zm1 0zm5 10zm-44 0zm-4 4zm-13-2zm-30 0zm-7 2zm-21 6zm0 9zm24-3zm18-4zm12 6zm7 0zm22 0zm0-2zm-9 18zm0 1zm-29-6zm-4 0zm-4 0zm-12 5zm-32-7zm27 18zm1-8zm8-1zm9 7zm88 6zm-107 9zm-14 2z"/>
<path id="g11_3" d="M835 536zm2 6zm-23 16zm2 0zm8-1zm6-1zm66 16zm-1-3zm-47 2zm-26-6zm-10 7zm0-4zm3 14zm4-5zm6 7zm1-7zm8 10zm2-11zm0 5zm4 4zm32 0zm7-9zm8 7zm20-1zm-42 14zm-9-8zm-6 7zm-6-1zm-1-4zm-1 7zm-1-5zm-4 3zm-2-3zm-14-3zm-7 5zm11 15zm2-6zm5 2zm7 2zm2 1zm7-8zm32 0zm6 1zm4 9zm12-8zm4-1zm7 10zm2-4zm12 0zm8 1zm-11 11zm0-1zm-3 3zm-5-1zm-22-8zm0 9zm-29 1zm-11-8zm-1-2zm-8 7zm-3-4zm-11 8zm-18-11zm17 22zm5-8zm52 5zm8-2zm1 4zm3-4zm3 5zm12 1zm1-7zm2-2zm39 18zm-4-4zm-35 6zm-8-4zm-11-3zm-12 2zm-5-3zm-8 5zm0 3zm-4-1zm-37-5zm-1 4zm12 12zm13-4zm0-1zm100 2zm4-3zm3 4zm0 1z"/>
<path id="g11_4" d="M827 545zm-18 15zm9-2zm10-6zm57 23zm-17-2zm-2 1zm-10-8zm-4 1zm-20-2zm-21 19zm7 3zm5-7zm0 6zm11-3zm5 4zm11-10zm26 2zm4 1zm6 5zm3-9zm1 3zm16 3zm0-2zm27 16zm-5-2zm-10-5zm-6 0zm-16 5zm-7 0zm-23 3zm-4-6zm-7-1zm-13 7zm-10-7zm-10 15zm13 3zm1-6zm13 9zm3-10zm3 3zm6 2zm17-5zm40 6zm8-4zm17 1zm34 9zm-54 4zm-1 2zm-58-2zm-27 2zm-13-2zm48 10zm23 0zm3 4zm15-3zm1-4zm57 6zm-61 15zm-17-9zm-1 0zm-13 4zm-5-3zm-13 2zm13 13zm85-2zm4 6z"/>
<path id="g11_5" d="M828 538zm-13 21zm15 2zm55 4zm-70 4zm-6-1zm28 19zm3-7zm9-2zm3 1zm50 2zm12 7zm-23 3zm-40 2zm-2-5zm-5 10zm-27 12zm2-5zm2 1zm4-3zm1 0zm28 7zm1-9zm42 8zm4-6zm5 5zm3-8zm36 0zm-40 20zm-13-5zm-36 1zm-11-3zm-11 8zm-8-1zm5 15zm29-1zm25-8zm27 13zm-15 4zm-15-7zm-1 6zm-12-5zm-5 10zm99 19zm-110-3z"/>
<path id="g11_6" d="M812 555zm2-1zm12 1zm-6 10zm-3 4zm-9-2zm15 12zm12 4zm13 3zm19-5zm9 6zm30-2zm-6 13zm-45-4zm-23-2zm-5 13zm8 1zm2-2zm19 0zm61 5zm7 0zm2-9zm6 9zm-8 6zm-3 2zm0 3zm-1-6zm0 5zm-1-7zm-21 10zm-62 4zm53 4zm3-3zm9 8zm10-10zm49 19zm-40-2zm-69 6zm22 7zm44-6zm50 2zm-1 11z"/>
<path id="g11_7" d="M827 543zm-4 5zm-13-3zm24 9zm44 19zm-38 14zm0 0zm1-1zm20-9zm1-1zm1 1zm14 5zm-27 15zm-27-8zm9 14zm6-2zm2 2zm2 2zm2 2zm3-5zm3 5zm10 2zm82 7zm-110 7zm54 11zm15-1zm60 13zm-45 1zm-3-1zm-68 11zm10-4zm-11 16z"/>
<path id="g11_8" d="M814 555zm86 18zm-15-7zm0 4zm-31-4zm-22 5zm4 15zm6-8zm26 4zm6 2zm12-5zm4 3zm15 7zm-15 5zm-3-1zm-1-3zm-28 2zm-9 4zm-38-4zm4 19zm21-4zm8 2zm3-3zm62 4zm4-4zm6 8zm-8-2zm-68 4zm-12 19zm6-11zm74 13zm-12 1zm-1 1zm-5-1zm-12-2zm-20 3z"/>
<path id="g11_9" d="M820 549zm6 12zm61 12zm-27-8zm-19 10zm-16 12zm6-6zm68 6zm-52 5zm-9-1zm-3 3zm11 8zm61 3zm71 14zm-81-3zm-36 13zm72 3zm37 28zm-117 4z"/>
<path id="g11_10" d="M817 561zm15 2zm-23 22zm124 12zm-70-5zm-57 0zm-1-1zm23 13zm12 2zm56-1zm34-3zm15 3zm-69 12zm-61 2zm55 15zm4-5zm10-1zm2 0zm-51 11zm126 12zm2 13z"/>
<path id="g11_11" d="M826 554zm-9 15zm22 16zm56-8zm5 3zm8 6zm4 1zm-110 6zm37 10zm18 0zm11 27zm16 5zm4-2zm4-2zm27-2zm-2 14zm34 6z"/>
<path id="g12_0" d="M946 420zm-3 4zm0-1zm-13 9zm25 9zm76 11zm-5 2zm-2-7zm-26 3zm-5 5zm-3-3zm-4-2zm-3 5zm-7-1zm-8 0zm-6-2zm-4-5zm-2 0zm-1 6zm-1-3zm-4-2zm-5 1zm-11 3zm-10 2zm-10 9zm14 1zm0-5zm21 4zm10 2zm12-5zm5 4zm9-3zm2 3zm6-3zm1 4zm7-5zm6 1zm16-4zm6 6zm12 3zm15 10zm-8 1zm-8-3zm-11-2zm-21 0zm-9 4zm0-5zm0-2zm-8 4zm-3 4zm-1-9zm-2 1zm-17 5zm-5 2zm-9-6zm-3 9zm-3-4zm-5 2zm-6-5zm-1 6zm-1-1zm-6-4zm-5-3zm-1 7zm-13 2zm-13 0zm-4-2zm-9 14zm0-3zm2 2zm2 1zm10-6zm1 6zm1-10zm1 1zm10 0zm6 9zm5 0zm16-10zm15 2zm3-2zm19 8zm12 2zm2 0zm9-4zm5-2zm5-3zm43 6zm14 3zm19-3zm7 4zm0 0zm-5 10zm0-2zm-19-6zm-16 9zm-32-5zm-21-5zm-5 8zm-3-4zm-3 5zm-1-3zm-1-6zm-2 4zm-18-2zm-1-3zm-5 3zm-7 0zm-8 5zm-14-1zm-8 2zm-4 1zm-1-5zm-1-4zm0 9zm-9-10zm-1 3zm-2-1zm-14 6zm0-1zm-1-5zm-17 5zm18 14zm3-2zm4-4zm21-2zm7 1zm2 4zm1-3zm2 7zm0-5zm5 4zm7-3zm21 5zm4-5zm7 1zm3-4zm0 7zm6-1zm4 1zm7-10zm5 5zm9 0zm4-2zm22 3zm5-2zm8-1zm2 0zm7-1zm1 9zm5-2zm14-7zm2-2zm4 10zm2-5zm4 6zm2-11zm5 5zm-3 10zm-10 1zm-2 3zm-6 4zm-2-5zm-1-3zm-4 2zm-12-5zm-2 1zm-4 1zm-11-1zm-1 7zm-27-6zm-1 8zm-18-2zm-1 1zm-2 1zm-6-8zm-8 4zm-15-5zm-45 2zm-8-1zm-1 0zm-2 4zm-5 2zm-24 11zm2 2zm2 0zm2 2zm1 0zm6 0zm2 0zm21-11zm1 5zm1 3zm2 1zm32-4zm4-5zm9 2zm10 9zm4-3zm0-6zm2 9zm17-10zm2 6zm32 4zm2-3zm2-1zm1-4zm9 4zm27-6zm2 2zm1 6zm3-5zm14-3zm0 13zm-2 9zm-5 0zm-1-8zm-16 8zm-1-3zm-12 1zm-4 1zm-5 0zm-4-4zm0 5zm-5-6zm-6 1zm-2 0zm-4 0zm-3 0zm0-6zm-4 2zm-3 5zm-2-5zm-1 2zm-4 4zm-16 3zm-5-8zm-1-2zm-10 3zm-2-2zm-3 0zm-8 1zm-7-1zm-12 4zm-1-4zm-20 5zm-21 2zm0-7zm-2 5zm-1-4zm-6 11zm5 3zm2-4zm0 4zm5 0zm5 6zm7-5zm5 2zm12-1zm5-2zm1 2zm0-4zm4-2zm11 1zm11 2zm20 4zm3-3zm12 6zm13-4zm1-4zm6 2zm8 3zm15 3zm15-11zm0 1zm5 4zm1 6zm4-2zm1-8zm4 4zm1 4zm10-2zm1-5zm9 1zm1 15zm-4 0zm-19-3zm-11 0zm-1 4zm-5-3zm-9 7zm-2-10zm-6 0zm-13 4zm-2 3zm-19-6zm-1 7zm-18-8zm-46 1zm-9 7zm-6 2zm-11-11zm-4 2zm-6 2zm27 8zm21 9zm17-7zm18 6zm6-3zm1-2zm18 0zm4 8zm14 0zm1-5zm12-6zm4 0zm0 11zm1-8zm3-3zm15 2zm6-1zm0 5zm3 1zm2 0zm0 15zm-24 0zm-2 0zm0-5zm-5-2zm-2 0zm-2 0zm-9 8zm-11 0zm0-7zm-2-2zm-6 8zm-6-7zm-17 7zm-1-2zm-17 3zm-6-1zm-11-8zm-2 0zm-3 2zm-3-4zm14 12zm19 4zm15 0zm20 0zm5-3z"/>
<path id="g12_1" d="M943 419zm3 8zm-7 2zm0 3zm1 4zm12 5zm3-4zm35 13zm-12 5zm-3-6zm-20 5zm-5-7zm0-3zm-1 2zm-10 7zm-6 1zm-23 9zm26-6zm13-1zm21 1zm12 3zm14 5zm10 2zm34-1zm-36 12zm-6 0zm-7-8zm0 7zm-1-7zm-19-1zm-4 5zm-3-2zm-3-1zm-24 5zm-8-7zm-3 4zm-2 0zm-39 15zm1 2zm11-4zm1-4zm7 6zm2 3zm5-10zm2 9zm0-10zm4 9zm1-4zm19-4zm4 0zm44 7zm0-7zm19 1zm6 1zm41 0zm4-1zm40 18zm-21-3zm-3 5zm-5-1zm-12-7zm-6 8zm-28-3zm-17-2zm-8 5zm-3-7zm-6 3zm-2-3zm-2 6zm-5-9zm-2 2zm-5 9zm-3-5zm-2-3zm-7 2zm-12-4zm-1 3zm-3 6zm-3-5zm-19 6zm-4-9zm0 3zm-3-1zm-3 3zm-1 2zm-3-8zm-6 0zm-3 10zm-1-3zm-3-7zm-6 21zm10-3zm18-2zm0-1zm7-3zm4 3zm1 7zm45-8zm16 1zm8-2zm8 1zm8-3zm3 2zm22 1zm4 2zm7-2zm1 6zm6 0zm2-8zm0 5zm11 4zm0 0zm0-1zm1-2zm1-5zm2 1zm6 1zm2-3zm9 10zm0-11zm2 8zm2-6zm2 6zm-8 8zm-15-4zm-3 0zm-3 4zm-18-1zm-5 2zm-3 3zm-6-4zm-4 7zm-44-10zm-53-1zm-27 8zm-11-4zm-12-4zm-7 4zm-5-2zm2 21zm8 0zm20-3zm27-1zm4-3zm21-2zm16-2zm1 8zm14-3zm19 4zm16 1zm44-10zm4 4zm0-2zm2 3zm2 2zm1-1zm19 5zm-6 4zm-9 1zm-1-1zm-15 0zm-12 1zm-1 0zm-13 3zm-13 4zm-3 0zm-12-1zm-2-6zm-5 0zm-9-2zm-8 2zm-5-4zm-4 0zm-1 1zm-2 2zm-2 1zm-34 4zm-10-1zm-11-5zm0 8zm-9-10zm-10 16zm4 4zm3-8zm7 11zm5-6zm6 4zm11-4zm1 0zm0 3zm1-7zm3 5zm0-5zm0 9zm1-2zm40 1zm3-7zm34 3zm8-1zm6 3zm27 1zm11 1zm5-5zm5 6zm2 0zm6-10zm1 10zm8 7zm-2-1zm-12-1zm-5 7zm-6-7zm-1 2zm0-4zm-32 4zm0 1zm0-2zm0-3zm-3-1zm-7 10zm-1-4zm-10 0zm-21-1zm-9 3zm-1-4zm-53-3zm-3 0zm-1 3zm-3 0zm-4 5zm-16 2zm-7-6zm21 18zm3-5zm0-4zm27 6zm7 0zm7-4zm19 2zm3 5zm6-7zm0 3zm23-4zm5 4zm19 2zm18-9zm3 2zm1 9zm4-11zm8 2zm1-2zm1 10zm2 1zm1-1zm2 1zm0-5zm1-5zm0 7zm2 13zm0 0zm-39 1zm-16-1zm-10 2zm-14-5zm-22 1zm-4-1zm-5 5zm-8 0zm-23-2zm23 4zm16 4zm20-2zm10 0zm3 3zm1 1zm1-3zm0 0zm0 4zm16-5z"/>
<path id="g12_2" d="M944 426zm-2-6zm14 12zm1 3zm1-2zm30 21zm-4-3zm-1 4zm-3-6zm-22 3zm-11-8zm-7 3zm-6 8zm-1-2zm-21 11zm11-6zm3 9zm18-8zm2 6zm1 0zm1-7zm0 4zm13-3zm2 7zm11 1zm3-9zm13 9zm39 12zm-8-3zm-20-1zm-14 1zm-1 1zm-4-7zm-15 1zm-15 8zm-5-5zm-2-2zm-7 6zm-4-4zm-7 5zm-1-3zm0-3zm-1-3zm-3 1zm-13 3zm-20 4zm-4 5zm15 4zm11-7zm14 6zm24 0zm42 1zm2 2zm9-1zm34-8zm17 6zm40 9zm-7 6zm-7-1zm-7-1zm-43 1zm-10-7zm-4 0zm-6-1zm-2 9zm-7 0zm-8-5zm-8 0zm0 4zm-13 2zm-6 1zm-11-2zm-2-8zm-2-1zm-41 6zm-17 4zm-1-10zm-18 7zm11 16zm2-2zm23-1zm2-7zm3 6zm4 1zm2 1zm15-2zm3 4zm3-5zm19 3zm8-2zm9 1zm1 3zm6-10zm1-1zm4 4zm12 7zm1-8zm2 2zm2-3zm24-2zm4 5zm19-5zm11 5zm7-1zm4 2zm5-2zm16 1zm-26 8zm-1 7zm-2 0zm-7-2zm-6 2zm-2 0zm-2 0zm-6-2zm-2 5zm-48-11zm0 2zm-6-2zm-15 6zm0-1zm0 5zm-4 0zm-12-4zm-41 0zm-15 5zm-11-9zm-12-1zm30 11zm6 1zm34 7zm13-8zm9 8zm0-8zm14 2zm2 2zm12 2zm10 5zm21-3zm7 0zm13-8zm3 0zm0 1zm6-1zm1 0zm20 9zm7 2zm2 1zm-5 5zm-4-3zm-2 4zm-7-4zm-16 4zm-11 5zm-7-11zm-1 0zm-9 8zm-9-3zm-3-1zm-7 1zm-11 2zm-11-3zm-4 0zm-29-4zm-6 4zm-10 2zm-11 3zm-2 2zm-3 0zm-13 0zm-10-4zm-3-1zm0-5zm-9 8zm5 7zm14 7zm3-11zm15 6zm2-3zm0 1zm12 7zm3-5zm0 2zm44-4zm3-4zm25 2zm7 0zm24-2zm9 8zm4-3zm5 6zm3-2zm14-1zm16 3zm-1 5zm-3-3zm-19 9zm-1-5zm-1 5zm-5-3zm-10-1zm-16 5zm-3-5zm-9-6zm-4 3zm-18 5zm-25-6zm-41-2zm-7 0zm-13 0zm-18 5zm18 8zm3 6zm35-1zm10 1zm8 0zm8-4zm23-3zm15 6zm4 1zm2 0zm29-3zm4 1zm8 0zm3-1zm8-3zm7 7zm-4 7zm-3 3zm-1 2zm-5-3zm-3 2zm-38 0zm0-1zm-7-4zm-16 5zm-17 0zm0-2zm-1 1zm-20 3zm-13 5zm49 0zm66-2z"/>
<path id="g12_3" d="M951 424zm-19 7zm10 12zm87 10zm-1-3zm-6 1zm-19-4zm-38 3zm-5 3zm-5-3zm-19-3zm-19 15zm8 3zm3-3zm3 2zm20 3zm6-5zm18-5zm0 7zm7-4zm5 4zm24-1zm2-7zm15 1zm-38 15zm-12-3zm-19 3zm-23-3zm-10-1zm-4 3zm-2 6zm0-8zm-2 9zm-3-1zm-3-1zm-12 2zm-4-2zm-13 11zm2 3zm25-7zm3-2zm4 8zm24-9zm19 2zm33 5zm9-1zm28 4zm9-9zm9 5zm7 4zm8-1zm-9 6zm-1-3zm-1 8zm-23 0zm-13-8zm-21 9zm-5 0zm-1-4zm-8-1zm-17-3zm-4 10zm-41-4zm-2-6zm-1 7zm0-6zm-22 3zm-2-3zm-10-1zm8 17zm23 3zm8-8zm1 1zm16 0zm26 2zm16-4zm8 10zm0-9zm16 8zm10-9zm21 4zm2-1zm18 0zm7 4zm12 3zm3-8zm14 6zm5-2zm-7 13zm-1-4zm0-3zm-5 3zm-1-1zm-12 8zm-2-8zm-1 8zm-4 0zm-2-4zm-10-4zm-1 8zm-24-1zm-41-1zm-11-1zm-3-5zm-46 5zm-1-2zm-3 4zm-20-4zm-29-3zm6 17zm9 4zm57-10zm3 10zm3-8zm2 5zm3-8zm27 9zm1-2zm48-3zm7 2zm1 3zm48 1zm4 6zm0 0zm-35 6zm-5-1zm-10-9zm-2 7zm0 2zm-23-1zm-5-4zm-2 2zm-30-6zm-18 4zm-1-1zm-3 0zm-18 1zm-2 7zm-17 0zm-4-8zm-12 1zm-8-4zm-5 11zm-9-10zm8 17zm15 0zm8-5zm15 9zm2 1zm3 0zm68-9zm4 7zm51 2zm1-1zm9-6zm5 4zm18-4zm4 4zm0 1zm-22 14zm-2-3zm-6 1zm-11 0zm-3-5zm-1-4zm-1 8zm-7 2zm-1-3zm0-1zm-1-3zm-9 8zm-4-5zm-19-3zm-6 1zm-21 5zm-45-1zm-1-8zm-10 0zm-1 7zm-10-7zm-16 1zm20 20zm2-5zm4 1zm22-1zm4 4zm13-8zm16 4zm14 1zm1 2zm7-7zm16 2zm4 4zm4 4zm3-9zm2 1zm29 2zm3 5zm9-6zm2 9zm-1 0zm-38 3zm-5-1zm-12 8zm-10-3zm-6-4zm-11 4zm0-7zm-1 11zm-1-8zm-1 6zm-4-6zm-2 3zm-17 2zm-11-6zm-2-1zm-10 6zm18 7zm7 0zm29 2zm4-3zm9 2zm3 2z"/>
<path id="g12_4" d="M951 420zm-11 16zm12-4zm69 5zm7 8zm-8-1zm-35 9zm-4-6zm-2 3zm-9 0zm-3 3zm-3-3zm-3 1zm-3 2zm-16-6zm-12 19zm2 0zm30-3zm4-3zm8 2zm11 0zm11 2zm10-5zm17 3zm1 2zm8-3zm-17 14zm-2 3zm-20-2zm0 0zm-23-6zm-13 2zm-13 3zm-15 2zm-20-2zm-27 13zm6 3zm21-4zm5-7zm5 1zm56 3zm26 7zm8-11zm47 7zm2-5zm1 3zm4 16zm-50-7zm-24 1zm0 4zm-1 4zm-2-2zm-6-7zm-29 1zm-10 4zm-2-5zm-32 3zm6 18zm20-7zm38-3zm10 4zm3 5zm2-2zm0-8zm14 11zm53-8zm14-2zm5 7zm3-1zm14 2zm0-8zm3 8zm3-8zm-11 13zm-15 4zm-7 1zm-6 1zm-4 0zm-6-1zm-10-3zm-60 1zm-1-3zm-4 0zm-38-2zm-49 6zm-5-4zm-6-1zm27 18zm3-5zm42 8zm8-7zm15 7zm2-3zm10 2zm46-1zm4-6zm0 8zm6-3zm0-4zm12-2zm14 3zm13 7zm4 0zm5 9zm-23 2zm-4 1zm-8-9zm-15-2zm-20 3zm-49 3zm-6 3zm-47-1zm-40-8zm15 13zm16 0zm17-1zm10 0zm1 2zm7 1zm42 5zm21-4zm0 4zm4-1zm17 3zm38-5zm12 2zm3 0zm4 5zm-13 8zm-2 1zm-2 1zm-1-9zm-8 9zm-3-7zm-8 7zm-29 1zm-21-9zm-3 8zm-6-6zm-33 6zm-11 11zm12-1zm2-3zm7 5zm33-9zm28 9zm24-10zm32 18zm-15-5zm-50 2zm-12 6zm-20-8zm-5 7zm-7-1zm-16-1zm54 11zm6-1zm2-2zm3 1z"/>
<path id="g12_5" d="M958 434zm0 8zm1-1zm55-1zm15 5zm-2 0zm-33 1zm-18 8zm-20-9zm-10 3zm-6 1zm-9-2zm-12 17zm8-5zm0-3zm15 0zm4 11zm8-3zm5-5zm8 1zm53 12zm-23 4zm-3-4zm-45 0zm-4 2zm-22 1zm-32 13zm2-1zm15-4zm15-2zm18-1zm21 10zm23-2zm107 10zm-33-2zm-6 1zm-6 6zm-88-3zm-7-6zm-32 8zm-19-9zm-30 15zm50 7zm6-6zm37-5zm6 8zm35-1zm15-1zm12 4zm2-7zm5 8zm0-2zm5-9zm4 11zm6-2zm9 1zm4 0zm1 1zm24-10zm-1 14zm-24 8zm-5 0zm-8-10zm-3 1zm-34 7zm-39-8zm-14 10zm-45-10zm-11 9zm-37-5zm10 10zm71 4zm5-7zm1 0zm71 0zm9 7zm26-1zm-10 14zm-9 2zm-7-9zm-6 4zm0-4zm-1 7zm-1-1zm-2-2zm-7 2zm-1-2zm-1 3zm-21-7zm-41 3zm-3-4zm-18 4zm-22 2zm-7-5zm-16 1zm27 21zm77 0zm17-4zm15 2zm10 0zm35 0zm15-1zm-26 4zm-2 5zm-26-5zm-9 6zm-5 3zm-19-9zm-11 7zm-3 4zm-31-10zm-60 0zm18 18zm45-6zm34 7zm7-4zm20 1zm1 2zm6-3zm54 9zm-2 4zm-37-3zm-24 3zm-9-4zm-66 4zm0-2zm23 9zm24 2zm18 2z"/>
<path id="g12_6" d="M957 430zm-6-6zm0 3zm-4 12zm51 14zm0-7zm-18 4zm-27-4zm-5 9zm-3-7zm-1 7zm-12-3zm-1-6zm-19 20zm20-6zm13 1zm70 14zm0-6zm-25 0zm-2 2zm-5 1zm-30-1zm-28 2zm-41 18zm0-8zm6 3zm15-3zm13 1zm17-4zm52 8zm84 10zm-1 5zm-74-5zm-37-5zm-58 4zm-9-3zm-13-2zm3 23zm3-6zm7 1zm8 0zm5 4zm22 0zm9 0zm45-3zm34-5zm3-2zm30 2zm2 3zm21 0zm13 6zm5-2zm1 4zm-1 7zm-3 2zm-2-8zm-16 7zm-2-9zm0 4zm0 0zm-2-1zm-105 5zm-73-2zm-2-4zm-11 19zm76-6zm22 2zm62 4zm12-7zm28-1zm7 0zm9 11zm-2 6zm-58 2zm-10-8zm-4 3zm-13 2zm-7 1zm-11-2zm-18 3zm-3-6zm-39 2zm-9 4zm-2 0zm-43-7zm23 19zm47-2zm28 2zm58 0zm3 2zm0-9zm37 7zm2-1zm10-2zm-13 13zm-10 1zm-15-4zm-19 6zm-30-4zm-2 5zm-68 2zm1 2zm19 1zm11 5zm12 4zm57-6zm4 1zm22-5zm3 0zm21 2zm7 12zm-65 5zm-3-7zm-2 7zm-10-4zm-5 5zm-29-6zm16 16zm4-6zm1 0zm17 6zm0-7zm2 5z"/>
<path id="g12_7" d="M951 435zm13 15zm-11-4zm-10 8zm-17 13zm45-7zm1 4zm7-8zm2 5zm39 5zm-2 8zm-6 4zm-60-1zm-3-8zm-20 10zm-24 0zm-15 1zm2 6zm9 5zm84-6zm2 5zm54-10zm12 12zm-26 9zm-29-1zm-30-7zm-49 3zm47 13zm42-2zm40-2zm33 9zm-8 10zm-24-3zm-4 2zm0-1zm-3 5zm-10-6zm-2 2zm-59-7zm-95 20zm74 3zm78-9zm4 7zm1-3zm5-3zm1-3zm19 23zm-21-5zm-18 4zm-3 1zm-29-4zm-10-3zm-12-1zm-5 2zm-1 1zm-31-3zm-18 0zm-13 10zm15 1zm13 9zm1-5zm3-5zm161 14zm-27 2zm-4-2zm-7-2zm-2 2zm-4-1zm-12 6zm-17-6zm-100 18zm82-8zm17 9zm17-3zm11-4zm26 3zm0 1zm10 6zm0 4zm-59 1zm-9 2zm-31 3zm-25-3zm-1 7zm7 3zm34 0zm5-3zm5-1zm5 1z"/>
<path id="g12_8" d="M1019 450zm-78 1zm-9 5zm9 7zm22-1zm7 4zm53 1zm31 10zm-132-1zm-11 13zm28-6zm132 4zm-17 6zm-37 4zm-9-3zm-43 8zm-17-1zm-21-7zm-8-1zm-3 3zm-24 12zm49 2zm18-1zm11 5zm26-5zm95 4zm-17 5zm0 4zm-5-4zm-90 8zm-102-7zm89 10zm75 2zm39 11zm-30 6zm-5 3zm-7-8zm-8 3zm-30 0zm-103 0zm-1-2zm18 13zm174 5zm-9 7zm-2-4zm-81 9zm-70-5zm98 10zm32-1zm-66 13zm-13 19z"/>
<path id="g12_9" d="M951 437zm-24 12zm36 7zm20 13zm-29 4zm-64 9zm105 7zm1-6zm77 15zm-66 1zm-19 2zm-55 1zm-19 4zm48 6zm19-3zm4-2zm72 18zm-17 0zm-55-4zm-85 3zm-21 1zm20 3zm63 2zm5 0zm107 8zm11-5zm2 8zm-37 2zm-21 1zm-46 0zm-17 3zm-36-3zm0 6zm-19-1zm68 12zm80 2zm6 12zm-1-4zm-7-6zm-84 2zm-47 0zm-19 0zm162 11zm-41 11zm-6 3zm-5 8z"/>
<path id="g12_10" d="M958 442zm22 8zm-46 10zm58 6zm63 10zm-75-6zm-42 5zm-16-2zm-21 12zm10 6zm36-6zm133 17zm-49 0zm-125-9zm-17-1zm27 22zm17-2zm34 0zm57-7zm52 10zm21-6zm-184 14zm56 8zm1 8zm68 6zm-37-4zm-27 0zm0-1zm-1 2zm-49 7zm1 13zm8-9zm150 8zm-6 3zm-23 10zm-120-8zm-10 5zm63 14zm27-5zm18-3zm4 3zm5 9zm-60 2z"/>
<path id="g12_11" d="M994 454zm-20 0zm-33-3zm-14 4zm14 10zm61 14zm-4-8zm-83 16zm81-2zm-14 17zm-1-5zm-21-2zm-5 3zm-43-6zm-16 3zm-3-1zm-1 7zm5 12zm25-7zm3 2zm108-4zm13 3zm1 0zm15 2zm11 2zm22-5zm-6 17zm-41-3zm-95-1zm-30-3zm-40 2zm-6 0zm0 17zm42-6zm25 2zm125 0zm22 7zm-53 5zm-25 3zm-26-4zm-1 6zm-14-6zm-6 7zm-24 2zm-3-1zm-30-2zm-14 2zm-7 4zm45 7zm9-3zm39-3zm76 8zm7-2zm18-7zm-24 14zm-13 3zm-42-6zm-54 10zm-21-10zm33 22zm105 3zm-56-1zm-30 0zm-19 1zm-18 5zm87 12zm14-7z"/>
<path id="g13_0" d="M909 789zm-26 14zm20-6zm10-3zm1 1zm21 0zm15 12zm-9 8zm-1-8zm-15 5zm-1-8zm-5 11zm-19-9zm0 4zm-11 3zm-8-4zm9 15zm2-5zm1 4zm1 2zm4 2zm17-5zm10 5zm2-5zm0 0zm6 1zm10 1zm-3 10zm-3-5zm-9 1zm-7-2zm-15 2zm-5 0zm-1 3z"/>
<path id="g13_1" d="M893 797zm5 1zm22-2zm17 15zm-21-7zm-1 2zm0 6zm-17-3zm-9 3zm-2-2zm0 1zm-3-4zm12 9zm31 7zm0-7zm15 12zm-4 8zm-13 0zm-1-6zm-15-2z"/>
<path id="g13_2" d="M892 801zm7-5zm15 3zm5-6zm5 2zm11 10zm-12-1zm-38 8zm-3-7zm24 20zm12-1zm11-5zm3 2zm-17 7zm-2 7zm-13-4zm-8-2z"/>
<path id="g13_3" d="M922 787zm-41 16zm5-6zm16 4zm1-3zm0-5zm5 6zm10 4zm10-2zm0-1zm8 15zm-5-7zm-11 4zm-13-5zm-1-2zm-12 4zm-10 7zm9 5zm0 2zm2-3zm2 2zm9-3zm2-3zm7 3zm22-2zm3 0zm6 2zm-14 12zm-5 5zm-13 1zm-7-7z"/>
<path id="g13_4" d="M912 803zm23 11zm-16-5zm-12 4zm-7-8zm-1 7zm-6-7zm-3 10zm-8-8zm12 12zm4-2zm3 10zm8-9zm25 6zm6 1zm4-7zm0 5zm2-5zm-6 14zm-29 1z"/>
<path id="g13_5" d="M881 799zm5 1zm32-3zm12 6zm5-3zm-12 11zm-26 4zm-9 1zm18 8zm14-5zm8 10z"/>
<path id="g13_6" d="M927 807zm-11 3zm-14 5zm-15-11zm15 15zm44-1z"/>
<path id="g13_7" d="M937 810zm-40 9z"/>
<path id="g13_8" d="M919 818z"/>
<path id="g13_9" d="M902 827zm32-2zm3 3zm-9 2zm-29 3z"/>
<path id="g13_10" d="M923 793zm-29 34zm13-8zm24 3z"/>
<path id="h0_0" d="M692 2226zm-2-1zm-1 5zm-8 1zm-5-3zm-3 0zm-2 2zm-2 1zm-35-5zm-23 6zm4 10zm9-3zm2-7zm1 11zm1-10zm8 10zm9-3zm1-7zm1 0zm7 7zm10-7zm2 8zm6 2zm3-1zm1-6zm16-1zm4 3zm4 11zm-13 2zm-1-6zm-1 7zm-2-2zm-3 1zm-1-5zm-15 5zm-2-7zm-3 5zm-4 0zm-5 0zm-7-4zm-8 4zm-4 6zm-9 0zm-6-10zm-1 4zm-6 6zm-5 0zm-6-4zm-1 4zm-4-4zm-1 3zm-1-2zm-2-2zm-2 0zm-33 17zm6-2zm20 2zm0-2zm0-2zm4-3zm1 3zm1-3zm4 1zm1 3zm8-6zm4 4zm5 4zm4 0zm4-3zm5-6zm4-1zm14 4zm4-4zm0 6zm1 0zm9 3zm9-2zm0-5zm3 8zm6-10zm1 0zm15 0zm3 3zm3-3zm1 0zm2 11zm4-9zm1-1zm12 3zm22 15zm-20 0zm0 4zm-3-11zm-3 0zm-6 3zm-11 7zm-8-3zm-2 1zm-7 3zm-1-11zm-6 2zm-1 1zm-1-2zm-6 9zm-1 0zm-2 0zm0-1zm0-9zm0 11zm-2-11zm-2 11zm0 0zm-6 0zm0-10zm-2 0zm-2 0zm-3 1zm-2 5zm-11-1zm-2 3zm-1-2zm-1-6zm-6 7zm-1-5zm0 6zm-5-4zm-11 2zm0-7zm-8 8zm-3-2zm-6-6zm-2 8zm-6-4zm-2 2zm0-6zm-6 8zm0 0zm-3-4zm-1 3zm-2 2zm-6 0zm-13 6zm2 4zm1 4zm3-4zm6-5zm2-1zm1 4zm2 5zm4-6zm2-1zm2 0zm1-1zm0 2zm9 5zm7-9zm3 11zm0-8zm1 4zm1-4zm0 5zm0-2zm8-3zm6 7zm5-1zm1 0zm8 1zm2-4zm3-4zm2 0zm1 4zm6-2zm0 5zm1-3zm6-3zm2-1zm0 2zm1-4zm2 7zm6-5zm1 8zm4-9zm12 5zm1-3zm3 1zm4 1zm3 4zm3-1zm5-4zm2 5zm2-2zm6 3zm2-4zm3-1zm15 6zm8-4zm2-2zm2 3zm2 3zm21 9zm-19-5zm-4-3zm-13 10zm-4 1zm-1-1zm-2-1zm0-9zm-16 1zm-3 4zm-2 6zm-3-7zm-2 4zm-5-1zm-4-3zm-10-4zm-2 11zm-4-1zm-1-3zm-1-3zm-7-1zm-5 1zm-1 4zm-1 2zm-5-3zm-2-2zm-1-2zm-10 2zm-5 2zm-5-5zm-4-1zm-4 5zm-11-2zm-1 5zm-2-7zm-3 7zm-3-3zm0 2zm-2-8zm-2 2zm-15 3zm-4-4zm-5 8zm-7-6zm-3 5zm-3-7zm-1 7zm-6 0zm0-5zm-2 6zm-1 1zm-3-9zm-9 5zm-1 5zm-2 0zm-4-6zm-6 4zm-17 13zm1-6zm4 7zm2-1zm3-9zm6-1zm1 10zm4-8zm3-1zm8 4zm0-4zm5 10zm0-8zm1 0zm9 8zm5-1zm9-7zm11-1zm7 4zm0 5zm6-2zm2-5zm2-3zm1 9zm2-5zm12-2zm3 4zm5-4zm10-2zm0 9zm1-3zm3-6zm3 10zm8-3zm0-3zm2 4zm6-2zm0 2zm0-3zm3-6zm1 0zm2 10zm17-5zm0 0zm0 6zm7-1zm1-5zm3-2zm8 1zm28 7zm1-10zm12 5zm1-5zm4 1zm4 4zm4-3zm0 1zm2-3zm3 9zm2-4zm8-6zm1 3zm-11 13zm-8 5zm-4-1zm-1-8zm-6 11zm-7-3zm-6-6zm-9 5zm-3 0zm-2 4zm0-5zm-1 4zm-4-1zm-1-7zm-5 1zm0-2zm-2 7zm-1-3zm-2-3zm-5 3zm-1 1zm-19-3zm-2-1zm-5 7zm0 0zm-1 2zm-3-6zm-3-1zm-5 1zm0 5zm-7 1zm-1-5zm-3 5zm-8 0zm-4-7zm-4-2zm0 3zm-2-3zm0 1zm-1 1zm-11-2zm-2 0zm-4-2zm-7 3zm-1 0zm0 2zm-1 4zm-3-3zm-1 3zm-3-7zm-1-2zm-3 1zm0 9zm-6-7zm-5 4zm0-1zm-13-3zm-7 0zm-4-1zm-8 8zm-3-2zm-6-5zm-1 6zm-7-3zm0-1zm-4 4zm-1 0zm-3-9zm-1 8zm-2 0zm-1 1zm0-5zm-1-1zm-1 8zm-1-8zm-7 6zm-4-3zm-10-5zm-23 20zm15-2zm0-1zm3 3zm13-8zm9 4zm9-4zm3 9zm9-3zm0 1zm17 0zm5-5zm0 6zm3-4zm4 4zm0 2zm5-11zm4 9zm9-1zm0-6zm5 6zm3-2zm5-5zm3 3zm4-1zm4 3zm1 4zm5-4zm3 2zm9 1zm1-5zm0 3zm7 2zm1-2zm1-1zm3-4zm3 5zm1 2zm1 2zm3 0zm3-11zm1 7zm0-2zm10 6zm0-2zm3-5zm1-3zm5 9zm2-3zm1 4zm15-11zm5 4zm2 1zm6-1zm9-2zm0 8zm2-4zm0 3zm1-1zm14-5zm8 0zm4-3zm6 10zm9-4zm2-6zm0 3zm1-2zm16 5zm4-5zm6 5zm2-6zm1 8zm-2 13zm-4-7zm-18 0zm-2-2zm-3 3zm-1 2zm-3-4zm-3 1zm0 4zm-2 5zm-9-1zm-4-2zm-1 1zm-2-3zm-13-6zm-2 9zm-2-5zm-3 7zm0-2zm-1 0zm-5-6zm-13-1zm-32 4zm-2-5zm-6 0zm-6 9zm-1 0zm-8-6zm-4 5zm-13-3zm-4-6zm-6 2zm-9 1zm-2 4zm-1-5zm-1 3zm-3 4zm-1-9zm-10 10zm-1-10zm-1 4zm0 7zm-3-4zm-7-3zm0 0zm-2 7zm-2-7zm-2 7zm0-7zm-1 7zm0-8zm-16-1zm-4-1zm-1 7zm-2 2zm-9-2zm-5 0zm0-7zm-3 3zm-2 7zm-3-9zm-7 4zm-2-3zm0 7zm-2-5zm-1 0zm-3-3zm-4 1zm0-1zm0-2zm-2 0zm0 10zm-4 0zm-3 0zm-1-4zm-5 1zm-1 2zm-5 0zm-3-3zm-8 0zm-5 5zm-3-7zm-1 7zm-2 0zm-3-5zm-11 5zm-13 7zm1 1zm9 3zm3-1zm11-7zm1 6zm2-1zm3-5zm8 1zm8 6zm2 2zm9-1zm1-1zm2-2zm5 2zm0-1zm27 2zm11-5zm6 0zm3-2zm4 2zm2 5zm0-1zm1-6zm8-3zm2 3zm1 3zm8 2zm7 0zm11 2zm21-2zm0-2zm0 1zm1-2zm3 2zm2 1zm2 0zm1-7zm2 3zm4-1zm1-3zm2 4zm2 1zm4 1zm8-4zm3 7zm2-9zm7 0zm2 0zm0 6zm1-2zm2 7zm4-9zm1 7zm1-5zm3-4zm5 4zm2 4zm5 2zm3 0zm0-8zm2 1zm6 1zm3-4zm2 0zm3 11zm4-8zm0 7zm12-7zm2-3zm3 3zm7 1zm4 1zm2 4zm12-1zm1 3zm2-6zm8 5zm2-8zm2 0zm0-1zm8 5zm17 5zm-3 12zm-7-7zm-7 0zm-6 4zm-14 0zm-1-4zm-1-1zm-3 8zm-4-5zm0-5zm-2 9zm-4-7zm-10 8zm-2-8zm-1 0zm-4 4zm-2 3zm-6-7zm-4 8zm-2-6zm-2 3zm-3 0zm0-1zm-3-7zm-5 1zm-1 1zm-4 8zm0 0zm-1-8zm-4 8zm-6-5zm-4-3zm0 9zm-8-11zm-3 1zm-7 2zm-12-3zm-2 1zm-3 5zm-3-6zm-3 0zm-4 5zm0-2zm-2 3zm-2-6zm-12 10zm-8-2zm-2 3zm-1-8zm0 7zm-1-9zm-3 9zm-9-9zm-2 8zm-10-6zm-1-2zm-11 6zm0-3zm-5 3zm-2 0zm-6 0zm-2 3zm-11 0zm-1-1zm0 1zm-8-1zm-6-1zm-1-4zm0-2zm-3 8zm-1-9zm-2 5zm-2-5zm-3 4zm-8-3zm-4 1zm-17-1zm-1-1zm-3 5zm-5 1zm-2-6zm0 5zm-15 3zm-2-9zm-3 10zm-1-2zm-2 0zm0-2zm-19-2zm-5 6zm-17 12zm3 1zm2-1zm1-8zm10 9zm0-4zm8-1zm0-2zm1 1zm13-1zm1 4zm2-1zm5 1zm5-4zm7-1zm3-3zm2 4zm3 5zm3 0zm1-3zm2 0zm11-1zm2 6zm3-9zm2 3zm4 1zm6 1zm4-1zm0 0zm8-6zm14 0zm6 2zm4 2zm1 3zm4-5zm7 8zm1-7zm2-2zm12 8zm2-1zm4-8zm2 11zm2-3zm1 0zm2 0zm2 3zm2-2zm5-2zm2 3zm1-5zm1 0zm0-4zm4 1zm9 6zm0 0zm0-3zm1-4zm12 5zm1-2zm1-1zm8 7zm0-10zm11 7zm4-3zm0 7zm9-7zm2-1zm1 5zm5-1zm1-4zm11 6zm4 1zm1-3zm1 1zm2-3zm2-3zm15 4zm5 1zm1 4zm10-8zm4 0zm3 3zm4 1zm1 2zm1 0zm2 2zm3-2zm0-6zm4-1zm1 5zm3 1zm5-4zm5 1zm2 1zm10-1zm0-2zm0 2zm3 6zm12-4zm1 1zm0 2zm5-6zm14 6zm-11 10zm0 3zm-4-9zm-3 2zm-2 7zm0-2zm-6-3zm-2 3zm-3-8zm-1-1zm-10 5zm-3-4zm-4 10zm0-9zm-2 8zm-7-5zm-5-3zm-1 3zm-9 1zm-6 0zm-2-3zm0-3zm-1 9zm-10-8zm-1 5zm-3 0zm0 5zm-5-11zm-1 8zm-1 1zm-4-2zm-1-6zm-4 6zm-4 0zm-8-4zm-4 0zm-1 4zm-1-4zm-13 4zm0-4zm-6 0zm-4 2zm-1-4zm-7 2zm-2 2zm-2 1zm-2-1zm-5 4zm-14-5zm-18-2zm-1 3zm-6 2zm0-4zm-11 8zm-2 0zm-7-5zm-2-2zm-3 3zm-2-6zm0 9zm-11-9zm-10 0zm-3 8zm-2-1zm-3-4zm-2-2zm-2 9zm-7-8zm-12 0zm-5 4zm0 2zm-4-5zm-6-3zm0 3zm-5 5zm-1-3zm-1 4zm-5-9zm-1 2zm0 6zm-6 1zm-5-3zm0-1zm-2-6zm-5 6zm-20-3zm-1 4zm-2 3zm-5 1zm-7-3zm0 2zm-5-10zm-1 2zm-1 3zm-1 2zm-2-3zm0 5zm-1 0zm-8-2zm-2 0zm-1 16zm6-8zm0 0zm3 0zm5 2zm6 5zm1 1zm0 0zm4-11zm4 7zm2-4zm4-3zm4 10zm2-2zm2 1zm1-3zm1 0zm0-5zm1 7zm11-3zm10-5zm5 0zm3 1zm5 7zm1-1zm2-4zm4 5zm2 0zm1-4zm6 3zm0 1zm3-4zm3-4zm2 6zm8 1zm4-4zm0 3zm2 5zm5-11zm6 3zm4-3zm3 7zm4-6zm0 1zm0 8zm0-9zm1-1zm3 1zm5 0zm7 6zm3-3zm1 2zm4-4zm1 7zm7 0zm0-8zm1 0zm6 1zm9-1zm1 5zm2-4zm4 2zm1 2zm0 5zm1-3zm3-6zm1-1zm1 7zm5-2zm12 4zm0 0zm1 0zm5 1zm0-8zm7-1zm2 5zm1-2zm2-2zm2 8zm0-7zm7-4zm1 6zm1-2zm11 5zm2-8zm4 10zm14-1zm3-6zm4 4zm1-7zm10 4zm3-5zm4 9zm5 0zm6 1zm18-2zm2 0zm2-5zm8-3zm1 1zm0 10zm1-7zm7 1zm0 5zm6-1zm7-8zm2 3zm1 4zm1-2zm5-2zm0 1zm1 2zm1-6zm1 2zm5 4zm2-3zm3-4zm1 8zm1-4zm6-1zm8 6zm3-7zm1 7zm1-8zm1 6zm10-1zm-10 8zm-13 5zm-7-1zm-2 0zm-2 2zm-5 0zm-2 0zm-5-3zm-10 1zm-6-6zm-4 2zm-1-1zm0 5zm-2-4zm-2 1zm-7 6zm-5-7zm-2-1zm-3 9zm-2-5zm-12-5zm-1 8zm-5-4zm-3-1zm-1 7zm-2-10zm-5 3zm-6-3zm-3 4zm-3 0zm-4 3zm-5 4zm-3-9zm0 8zm-2 0zm-2 1zm-2-8zm-3 3zm-3 1zm-7 2zm0-2zm-2 1zm-3-5zm0 0zm-4-2zm-3 8zm-2 0zm-1-6zm-3 0zm0 5zm-9 2zm-6 1zm-2-1zm-11-9zm-1 6zm-8 1zm-4-8zm-3 2zm-2 6zm-5 2zm-2-8zm-2 3zm-1 5zm-1-8zm-14 0zm-1-1zm-10 5zm-1-6zm-3 2zm-7 8zm0-6zm-1 0zm0 3zm0-7zm-6 2zm0 2zm-2-1zm-3 6zm-2-2zm-17 0zm-5 0zm-1 3zm0 0zm-2 1zm0-3zm-1-6zm0 3zm-2 0zm-7-1zm-14-2zm0 5zm-6-7zm-1 7zm-4 2zm-1-9zm-2 5zm-1 6zm0-9zm-3 9zm-3-9zm-3-2zm0 11zm-4-10zm-7 6zm-7-6zm0 6zm-1-4zm-3-1zm-3-1zm-3 1zm-5 9zm-4-5zm-1 3zm-3-1zm-4-4zm0 7zm-1-3zm-4-7zm-2 10zm-2-7zm-2-3zm-1 7zm-5-5zm2 15zm0-2zm2-2zm1 5zm4 4zm5 0zm1-9zm7 2zm0-1zm3 7zm3-6zm5-1zm3 8zm0-1zm1-4zm4 2zm1 3zm3-4zm5-3zm3 2zm2-5zm6 0zm0 4zm1 5zm1-5zm0-4zm3 7zm4 1zm0 1zm0-2zm1-5zm1 1zm0 3zm2-6zm2 7zm12-6zm9 0zm1 9zm1 0zm2-6zm4 5zm6-3zm12-2zm1 2zm6-3zm1-1zm5 6zm2-1zm2-8zm12 8zm3 1zm1 1zm1-9zm4 4zm3 4zm3-5zm6 6zm12-7zm4 6zm12 1zm0-5zm2 0zm1-4zm0 9zm0-9zm3 6zm5 0zm6 0zm0-1zm20-6zm4 5zm2-3zm2 5zm2-3zm0 6zm2-2zm5-6zm4 3zm3 3zm9-5zm2-1zm2 6zm10 2zm5-10zm9 6zm3-1zm1-5zm5 11zm4-5zm0 3zm11-2zm1 3zm6-9zm23-1zm6 3zm0-2zm7 0zm0 8zm4-8zm1 4zm2 5zm2-6zm17-2zm5 4zm3-4zm1 6zm1-8zm2 5zm0 2zm2 2zm5-7zm5 3zm1-2zm1 7zm25 8zm-2-2zm-1 7zm0-7zm-1 1zm-1 5zm-9 0zm-2-7zm-8 4zm-3-3zm-1 1zm-1 1zm-3 2zm-14-6zm-6 4zm-1-2zm-12 7zm-2 0zm-3-8zm-4 2zm0 0zm-5 3zm-2 2zm-2-1zm-2 2zm-7 0zm-1-10zm0-1zm-1 1zm-1 3zm0 6zm-14-7zm0-1zm-3 8zm-14 0zm-3-6zm-2-4zm0 3zm-1 0zm0 2zm-2 2zm-6-4zm0 8zm-1-6zm0 0zm-6-5zm0 4zm-11-3zm-2 9zm-4-5zm-2-1zm-1 3zm-1-5zm-1 1zm-7 7zm0-2zm-2-2zm-1 1zm-2 2zm-1 2zm-2-10zm-1 6zm-1 1zm-5-7zm-2 8zm-3-4zm-10 1zm-4 5zm-1-7zm-3-3zm-6 2zm0-1zm-10 5zm-7-1zm-14-4zm-8-1zm-3 5zm-7-6zm0 10zm-4-3zm-9 2zm-15 2zm-1-4zm-5 2zm-3-1zm-3-7zm-11 8zm0-6zm-1 2zm-5 4zm-3 0zm-9-9zm0 6zm0-2zm-8 7zm-2-10zm-17-1zm-2 5zm0-1zm-1 7zm-1-3zm-6-5zm-5 5zm0-8zm-3 9zm-6-8zm-2 6zm-12-7zm-7 1zm0 6zm-7-4zm-4 4zm-2-1zm-1-5zm-6 10zm-9 0zm-3-10zm-9 5zm-6 5zm-4 4zm6 4zm0-1zm6 4zm4-10zm6 11zm0-1zm2-7zm7-1zm1 1zm2 1zm16 2zm8 4zm0-10zm14 0zm3 11zm7-1zm1-7zm3 1zm6 6zm0-7zm1 5zm2 1zm2-9zm3 8zm1-2zm2-6zm8 1zm1 5zm2 5zm1-4zm4-7zm1 2zm3 2zm6 2zm1-3zm5 6zm1-6zm0 6zm4-4zm5-3zm9 3zm1 2zm3-2zm2 1zm4 4zm0-6zm2 1zm8-1zm2 7zm2-3zm4-4zm3 1zm0 3zm4 2zm3-9zm7 7zm1-5zm0 3zm1 3zm1-6zm4 3zm4-5zm7 1zm5 2zm0-1zm3-3zm1 10zm3-6zm1-2zm4 8zm1-8zm2 3zm5 3zm3 1zm5 2zm2 0zm3-7zm1 6zm9-1zm4-4zm7-5zm2 6zm5-4zm4 3zm3 2zm0-3zm9 6zm12-9zm6-1zm3 4zm4 6zm2 1zm0-7zm3 7zm7-4zm0 3zm4-2zm6-1zm1 0zm9 0zm3-6zm1 9zm2-3zm2 2zm4 0zm1-7zm8 0zm5-1zm2-1zm4 3zm3 7zm3 0zm4-1zm2 0zm7-2zm0 1zm0 2zm1-10zm0 5zm10-3zm0 6zm7 2zm2-7zm2 6zm1 0zm1 2zm1-5zm1-5zm14 6zm3-6zm8 0zm8 5zm1 2zm2-1zm1 1zm12-1zm4 4zm1-4zm26 4zm-13 9zm-5-2zm-17-5zm-7 6zm-3-4zm-1 6zm-9-3zm-1 5zm0-2zm-10 2zm-2 0zm-3-4zm-8 2zm-5-7zm-1 6zm-3 1zm-11 1zm0-6zm-1 7zm-2-8zm-7 6zm-3 0zm-7-9zm-4 4zm-7 4zm-8 0zm0-6zm-6 1zm0-1zm-2-1zm-2 3zm-5-3zm-1 9zm-1-8zm-15 8zm-1-7zm-5 5zm-3-6zm-12 5zm-3 3zm-6-1zm-1 1zm-8 0zm-3-2zm-12-3zm-7 4zm-2 2zm-5-7zm-1 2zm-1 0zm0-4zm-2 6zm0 0zm-3 1zm-1-8zm-1-1zm-7 10zm-1-5zm-3 0zm-2-1zm0 5zm-6-8zm-3 0zm-1 3zm-1 2zm-2-4zm-1 1zm-3 5zm-1 2zm-1-6zm-16 4zm-1-3zm-2-3zm-3 1zm-2 3zm-1-6zm-3 7zm0-5zm-2 0zm-7 5zm-4-7zm0 4zm-6-4zm-3 8zm-6 2zm0-7zm-3 0zm-2 6zm-13-3zm-3 4zm-5-8zm-4 1zm-1 7zm-4-5zm-2 1zm-4 0zm0-5zm-17 0zm0 10zm-5 0zm-5-10zm-4 10zm-3-1zm-5-10zm-2 1zm0 2zm-1 2zm-7-5zm-4 1zm-2 9zm0 0zm-7-6zm-1-3zm-1 0zm-1-1zm-3 0zm-5 11zm0-3zm-4-1zm0-3zm0 6zm-5-10zm-1 0zm-9 7zm-10-3zm-4-1zm0-3zm-2 8zm-1-3zm-3 4zm-2-9zm-14 10zm-5 1zm-1-3zm-2-8zm3 17zm7-2zm0-2zm2 0zm1 6zm5 4zm3-11zm5 9zm5 2zm12-8zm12 3zm5-2zm5-2zm0 2zm2-1zm5-2zm1 2zm0 2zm4-5zm4 5zm9 1zm3-1zm2 6zm0 0zm3-7zm3 5zm2 2zm3-10zm3-1zm3 3zm3 4zm2-6zm4 5zm1 3zm3-2zm14 0zm9 0zm4-3zm0 1zm3 1zm2-2zm7 7zm6-7zm8 5zm5 1zm0 1zm1-6zm0 1zm3 4zm8-6zm4 6zm0-2zm5 1zm3 1zm10-10zm3 0zm4 4zm14-4zm1 8zm1-3zm8 4zm2 1zm3-8zm1 2zm16 6zm7 1zm1-2zm1-8zm2 1zm1-2zm2 6zm3 4zm0-2zm1 2zm1-5zm5 6zm6-3zm6 1zm1-7zm2 8zm8 0zm1-9zm11 2zm6 2zm4 4zm4-6zm0 8zm0-3zm3-7zm2 10zm1-10zm4 4zm3 2zm3-6zm9 0zm4 0zm0 1zm1 9zm6-8zm4 6zm6-5zm3-4zm15 7zm5 2zm8 2zm3-7zm6 7zm1-3zm3-2zm14-4zm3 4zm0-6zm4 10zm5-2zm3-1zm1-6zm0 4zm14 4zm7-8zm7 7zm1-8zm1 10zm6-5zm0 3zm11 3zm19-2zm-12 6zm-3 8zm-2 0zm-1-11zm-16 1zm-13 2zm-2 2zm-6 6zm-4-7zm-5 6zm-4-7zm-1-3zm-1 5zm-8 6zm-15-4zm-9-7zm-3 10zm-1-3zm-3-1zm-4 0zm0 3zm-1-6zm-8 8zm-1-11zm0 9zm-3-7zm-2 6zm-1-8zm-3 8zm-2 2zm-1-3zm-2-3zm-1-4zm0 7zm-3 3zm-1-2zm-2-2zm-8 3zm-5 2zm-2 0zm-1-4zm-9 0zm-7 0zm-3-6zm-7 5zm0 1zm-4-3zm-9 6zm-2-5zm-3 1zm-6-6zm-1 4zm-4-1zm-6 7zm-3-2zm-1-7zm-2 3zm-2 3zm-3-5zm-8 7zm-2-3zm-8 1zm-8-6zm0 4zm-6-1zm0-1zm-8-3zm-3 10zm-3 1zm0-9zm-5 8zm-2-10zm-3 2zm-2 6zm-2-3zm0 6zm-2-7zm-2 4zm0-1zm-5-6zm-5 5zm-3-5zm-1 2zm-4-1zm-5 2zm-12-4zm-1 4zm-1 4zm-7-8zm0 1zm-7 7zm-2-5zm-3 0zm-1 6zm0-7zm-2-1zm-1 10zm-9-1zm-10 1zm-5-7zm-2 0zm0 3zm-1 3zm-7 1zm-1-5zm-1 1zm-4-6zm-4 3zm-13 1zm-11 3zm-1 3zm0 0zm-3-4zm-2 4zm0 0zm-2-9zm0 1zm-2 8zm-1-7zm-1 0zm-1 3zm-1-7zm-2 8zm-5 2zm-2 0zm-16-1zm-1 2zm-7 0zm-7-10zm-1 1zm-2 1zm-18-3zm-1 3zm-1 6zm-8-7zm-4 2zm9 16zm2 1zm9-2zm0 1zm5 1zm0-7zm0 9zm2-7zm1 5zm1-8zm1 6zm8-2zm7 5zm1 0zm8-9zm0 8zm4 1zm0-9zm1 6zm2 1zm5-7zm8 5zm0-2zm5-1zm0 5zm3-4zm15-1zm9-2zm9 2zm0 3zm0 4zm1-7zm7 7zm9-6zm7 6zm1-5zm9 2zm5 1zm5 3zm14-10zm0 5zm2-3zm1 7zm0-1zm2-9zm6 4zm14 6zm1 1zm6-11zm2 0zm1 10zm0-2zm2-5zm1 6zm2 1zm3-6zm3-4zm1 3zm8 3zm0 5zm1-9zm3 9zm3-4zm0-4zm4 0zm11 1zm6 1zm6-5zm14 11zm6-11zm1 9zm0 1zm4-4zm4 5zm7-3zm5-2zm0-6zm2 9zm1 0zm0-2zm0-7zm1 2zm1 7zm3-7zm1 5zm5-6zm4 5zm2 5zm5-7zm2 4zm1 0zm8 3zm2-3zm0-1zm4-5zm2 5zm3 4zm3 0zm1-10zm8 3zm1 4zm6-5zm5 2zm21 3zm3 3zm1-6zm0-3zm7-1zm5 7zm1-1zm12 4zm5-7zm2-3zm17 7zm16 3zm1-2zm1-1zm10-8zm2 8zm2 1zm4-7zm1 0zm3 3zm1-4zm0-1zm1 2zm0 7zm7 0zm6-5zm6 4zm1-5zm8 17zm-2 3zm-4-10zm-9-1zm-2 2zm-1 0zm-3-1zm-1 6zm-9-5zm-3 4zm-3 4zm0-1zm-21 1zm-1 0zm-4-6zm-7 7zm-8-9zm-4 1zm-6 3zm-3 1zm-2 1zm-1-4zm-9 7zm-1-4zm-3 4zm-2-8zm-2 7zm-2-2zm-3-8zm-2 11zm-1-11zm-6 10zm-5-9zm-7 9zm-6-9zm-5 4zm-7-2zm-1 0zm-2 7zm0-10zm-3 0zm-2 3zm-3 4zm-1-6zm-3 2zm-3 2zm0-3zm-1-1zm-5 6zm0 3zm-3-7zm-4 5zm0 2zm-9-2zm-5-1zm-10-6zm-7 9zm-2-5zm-8-1zm-3-1zm-4-3zm-4 4zm-1-3zm-3 8zm-5-7zm-1 4zm-3-6zm-8 2zm-4 2zm-16 0zm-8 3zm-3-7zm-2 2zm-8 9zm-4-6zm-1 2zm-2-1zm-1-3zm-16 8zm-4-5zm-1-3zm0 5zm-4-7zm-9-1zm0 1zm-9 2zm-4 4zm-2-4zm-3 6zm0-5zm-3 6zm-6-1zm-6-8zm-1 0zm-3 5zm-1 1zm-3 0zm-3 0zm-2-4zm0 4zm-6-3zm-9-1zm-3 4zm-3-6zm-4 1zm-1 9zm-1-3zm-1 0zm-2 2zm-1-9zm-3 0zm-2 9zm-4 1zm-1-6zm-3 5zm-4-5zm-7-4zm0 8zm-1 2zm-11-9zm0 0zm-4 4zm-3-1zm-3 3zm-3-7zm-1-1zm-3 0zm-2 5zm-2 1zm-2 3zm-1-4zm-12-5zm-6 1zm-4-1zm-4 5zm12 8zm13 2zm10-3zm18 2zm16-1zm4 1zm10-2zm2 5zm0-4zm9 5zm3 4zm13-10zm1 10zm0 0zm4-4zm5-2zm2 4zm2 3zm1-2zm8 0zm3-1zm2-5zm12 2zm1 0zm0-4zm4 0zm14 2zm3 2zm7 2zm0 3zm6-2zm1-8zm1 5zm0-4zm8 6zm6 4zm5-1zm2-3zm13 1zm1-8zm3 2zm15 6zm2 1zm2 1zm4-10zm11 0zm2 6zm4 0zm2-6zm0 7zm1-4zm6-2zm1 0zm8 0zm9 4zm0 2zm2-2zm2 2zm0-6zm2 9zm0-3zm6-1zm8 1zm1-2zm0 5zm0 1zm3-7zm3 1zm4 6zm0-6zm7 1zm1-4zm1 5zm0-3zm0 4zm0 0zm0-4zm1 2zm4 5zm0-8zm12 7zm0-4zm2 0zm3-1zm2 3zm4-6zm4 1zm4 4zm1 0zm6-6zm1 9zm6-7zm3-1zm10 0zm3 7zm0-4zm3-1zm4-1zm4-2zm3 6zm4-1zm6-6zm2 6zm6-3zm0 6zm3 1zm0 0zm1-9zm1 9zm14-1zm4-2zm21-2zm0 1zm1 5zm20-4zm2-4zm9 1zm1 1zm1 0zm1-1zm3 2zm-4 17zm-9-2zm-4-2zm0-7zm0 7zm-1 4zm-2-1zm-3-6zm-6 2zm-9 1zm-3-6zm-1 8zm-3-5zm-9 5zm-1-2zm0-7zm-5 8zm-10-5zm-1 6zm-2-9zm-3 0zm-1 11zm-7-9zm-10-1zm-8 6zm0-6zm-1-1zm-7 10zm-2-4zm-2 1zm-1 4zm-3-10zm-1 4zm-2 2zm-2 4zm-1-1zm-3-8zm-2 9zm-14-7zm-8 6zm-10 1zm-7-7zm-7-4zm-7 1zm-1 4zm-3 0zm-2 3zm-1-5zm-5 5zm-3-3zm-13 0zm0 4zm-5-3zm-7-6zm0 2zm-2 5zm0 4zm-6-7zm-4-3zm-1 7zm-2-6zm-5 1zm-4 6zm-4 1zm-5 0zm-5 1zm-4-6zm-1 0zm-1-4zm-5 4zm-1-2zm-1 8zm-5-10zm-5 5zm-4-5zm-11 1zm-5-1zm-7 10zm-1-4zm-7 4zm-2-2zm-4-9zm-6 7zm0-5zm-1 0zm0 9zm0-5zm0 1zm-3 3zm-1-2zm-1-3zm-7 0zm-7 6zm-5-6zm-7 5zm-2 0zm-1-4zm-1 3zm-2 0zm-5 0zm-5-1zm-15 0zm-1 1zm-3-2zm-12-1zm-6-3zm-15-3zm29 15zm4 8zm4-8zm1 4zm0-4zm0 2zm5-2zm1 8zm4-6zm2 4zm1 0zm8 0zm3 1zm8-7zm6 0zm3 2zm6-4zm1 1zm7 9zm2-7zm6-3zm1 10zm2-9zm6 8zm5 0zm3-7zm2-1zm2 7zm3 2zm4-5zm3-1zm1 4zm3-7zm4-1zm9 2zm3 7zm6-3zm4-2zm1 6zm1-4zm8 1zm7-8zm1 5zm3-1zm7 1zm8 4zm1-9zm2 7zm3 3zm2-5zm6-1zm4 6zm2-4zm0 0zm3-3zm0-3zm5 5zm9 4zm2-4zm0 2zm6-7zm7 8zm14-2zm6 3zm2-1zm5 1zm3-2zm14-7zm1 11zm4 0zm18-3zm3 0zm1 1zm7-7zm0-2zm4 3zm2 4zm3 4zm5-1zm5-7zm14-2zm3 2zm1-1zm4 5zm0-5zm8 4zm0 1zm0 2zm4-1zm3-1zm2 4zm2-9zm7 2zm4-1zm1 5zm1 1zm4-8zm0 8zm1-2zm6-1zm9 0zm2 5zm1-7zm4 3zm4 0zm1-6zm2 1zm-4 16zm-1 3zm-3-6zm-6 1zm0 7zm-1-10zm-3 5zm-1-3zm-3-2zm-1 2zm-2 7zm0-2zm-6 3zm-5-7zm-9 7zm-9-8zm0 8zm-3-9zm-4-2zm0 3zm-4 1zm-1 3zm-3-1zm0 1zm-10 3zm-1 0zm-2-2zm-2-6zm-34 8zm-7-2zm-5-7zm-1 10zm-1-11zm-2 2zm-2-2zm-4 9zm-1-7zm0 5zm-4-1zm-4-1zm-5 6zm-3-9zm-3 2zm0 4zm-2 1zm-4 1zm-11-4zm-2 1zm-7-4zm-1 1zm-10 0zm-12-2zm-1 0zm0 8zm-3-8zm0 3zm0 2zm-3 4zm-2-1zm-5-9zm0-1zm-4 9zm-7-4zm-1-5zm-1 2zm0 8zm-3 0zm-1-8zm-2 4zm-1-6zm-6 0zm-1 5zm-2-1zm-6-4zm-3 4zm0 0zm-3 0zm-3 0zm-2 1zm-3-5zm-8 5zm-4-5zm-1 7zm0 3zm-3-3zm-1-3zm0 7zm-14-8zm-2 7zm-7-7zm-9 8zm0 0zm-4-6zm-1 6zm-4-2zm0-9zm-10 6zm-3 2zm-1-8zm-3 5zm0-2zm-1-2zm-1 5zm-5-6zm-6 10zm-1 1zm-2-4zm-6-4zm-1-3zm-6 5zm0 2zm-1-2zm-4-2zm0-1zm-10 8zm0-3zm-2-5zm0 6zm-20-4zm8 11zm14-3zm1 6zm2 3zm3-6zm6-3zm1 8zm4-6zm0 5zm0 3zm1-8zm2 3zm3-5zm0 3zm1 4zm15-2zm3-3zm3-2zm1 5zm1 6zm11-7zm5 2zm2 1zm4 4zm9-3zm4 2zm1-5zm4 3zm2 3zm1-8zm6 1zm1-1zm1 6zm4-1zm0-4zm4 7zm0-4zm5-1zm1 2zm1-3zm1-2zm5 3zm4 2zm5-1zm1-3zm3 3zm2-1zm1 3zm1-8zm3-1zm0 2zm2 4zm0-6zm11 6zm8 1zm0 4zm3-9zm9 2zm1 0zm1-3zm1 4zm1 1zm2 2zm5-5zm0-3zm4 6zm5 5zm5 0zm3-4zm8-6zm8 7zm1-1zm4-3zm1 2zm1-4zm4 2zm1 2zm8 2zm1-7zm1 9zm6-8zm0 0zm3 4zm7 5zm7-4zm5-6zm4 2zm2-2zm5 7zm4 1zm3-8zm3 7zm1-4zm3-1zm0-1zm1 0zm1 7zm6-8zm2 7zm0 0zm14-5zm1 4zm3-3zm3 5zm4-7zm4 3zm0-3zm1 5zm6-7zm6 5zm2 2zm6-4zm5 7zm19-6zm1 5zm4-5zm1-3zm0 9zm2-10zm5 10zm0 7zm-4 4zm-2-5zm0 5zm-3-1zm-2-8zm-2 6zm0 0zm-2 5zm-5-3zm-2-7zm-10 5zm-4 3zm0 2zm-7-7zm-11-1zm-3 2zm-15-2zm-1 4zm-5 4zm-4-7zm-7-1zm-3 8zm-1-3zm-3 2zm-7-8zm-4 0zm-9-1zm0 1zm-9 2zm-5 3zm-6 2zm-4 0zm-4-9zm-4 10zm-10 1zm0-2zm-5 0zm-1 2zm-2 0zm-5-11zm-3 8zm0-4zm-7 3zm-1-1zm-16 1zm-9-7zm-15 7zm-9-4zm-1 3zm-2-4zm-1 6zm-6-5zm-3 4zm-7 4zm-2-5zm-6-6zm-8 0zm-1 2zm0 7zm-16 0zm-8-5zm-5-1zm-4-1zm-5-2zm-20 2zm-8-2zm-1 10zm-6-8zm-4 6zm-3 1zm0-5zm-1 4zm-3-5zm-1-1zm0-2zm-6 7zm-3-4zm0-3zm-9 4zm-3 0zm-1-3zm0 3zm-1-1zm0-3zm-2 2zm-1 6zm0-4zm-1 1zm-5-2zm109 13zm5 4zm10 2zm2-6zm9 0zm4 3zm2 3zm3-1zm0 0zm2-8zm4 0zm7 6zm4-3zm1 7zm1-2zm0 0zm5-1zm4-8zm9 8zm1 2zm8 0zm0-4zm4-5zm0 9zm1 1zm7-10zm3 9zm3 0zm3-3zm0-4zm0-2zm4 0zm4 0zm6 9zm1 0zm5-1zm9-1zm1 3zm0-6zm2 0zm16-2zm6 8zm3-7zm1 1zm4-2zm1-2zm1 9zm4-3zm8 3zm1-10zm11 11zm1-4zm1 0zm2-4zm1 7zm19-7zm6 3zm4 1zm14 2zm5-2zm9-4zm4-1zm9 7zm8-5zm-8 10zm-4 4zm-3-6zm-1 4zm-4 7zm-3-11zm-3 10zm-2-7zm-5 1zm-4 5zm-2-8zm-1 6zm-21 0zm-3-5zm-5 1zm-4 3zm-4 5zm-1-9zm-13-2zm0 1zm-17 3zm-17-4zm-7 1zm-8 2zm-2 0zm-3 4zm-1-4zm-5 5zm-3 0zm-3-3zm-1 4zm-3-4zm-3 4zm-1-1zm-11 0zm0-4zm-10-2zm-2-1zm-1 10zm-3-11zm-1 2zm-3 3zm-2-3zm-2 7zm-4-4zm0 4zm-3-1zm-4-1zm-1 2zm-5-1zm-2-2zm-2-2zm-11 6zm12 4zm19 0zm4 3zm8-2zm2 1zm2 7zm0-11zm7 3zm1 7zm4-10zm9 10zm1 1zm1-3zm5-7zm1 1zm2 6zm7 0zm1 3zm3-3zm6-1zm1-7zm2 10zm9-2zm2-5zm0-1zm1 3zm2 1zm1 4zm2-4zm8 5zm0-9zm1-2zm3 11zm1-5zm1-6zm2 2zm3 2zm1 7zm1-9zm3-1zm5 2zm1-3zm0 10zm0-4zm2 2zm3-1zm1-2zm8 2zm1-4zm2-2zm1 6zm6 0zm1 3zm1-7zm11-1zm5 1zm1 1zm6 5zm5-2zm13-6zm5 9zm4 1zm-10 5zm0 1zm-1 0zm-13 1zm-1 4zm-1 0zm-2-3zm-4-1zm-1-2zm0 5zm-4-3zm-4 2zm0 3zm-5-4zm-4 2zm-1 1zm-2-1zm-7-6zm-2 0zm0 3zm-6 5zm0-9zm-3 9zm-1-10zm-1 8zm-5-3zm-5-2zm-12 5zm-6-1zm-27 2zm-6-2zm-11 3zm-2-4zm-9-7zm-12 6zm22 7zm2 9zm6-9zm3 1zm0-1zm1 9zm2-9zm0 0zm0 2zm1-1zm6 6zm5 0zm5-8zm3 10zm1-10zm1 5zm3 4zm2-8zm14 9zm2 1zm0-7zm5 6zm0 0zm0-5zm6 4zm6-3zm1 4zm0-7zm3 7zm0-9zm10 9zm8-9zm7-1zm0 10zm10-10zm3 6zm3 5zm8 6zm-9-2zm-5 1zm-2-4zm-1 0zm-1 9zm-9 1zm0-10zm-4 3zm-4-3zm0 3zm-4-2zm-1 0zm-2 7zm-10-2zm-7 4zm-2-5zm-5 5zm-1 0zm-2-10zm-1 4zm-1 6zm-2-8zm-2 6zm-4-3zm-7 6zm-1-4zm-1-6zm-1 3zm-1-1zm-2 2zm-13 5zm0-8zm-1 4zm-2-4zm0-2zm-2 8zm-8-7zm17 13zm8 1zm2 4zm0-4zm3 1zm1 3zm8-2zm4 1zm0 0zm1-6zm15 6zm2 1zm4 1zm3-7zm1 4zm18-4zm6 4zm5 2zm10-5zm4 10zm-25 1zm-15 1zm-21 0zm-1 2zm-12-2z"/>
<path id="h0_1" d="M687 2227zm-3 4zm-4-6zm-9 1zm-62 15zm10-2zm10 0zm1-4zm4-1zm4 3zm2 1zm6-4zm18 3zm3 4zm1-8zm8 9zm3-3zm0-4zm4 0zm2 4zm3-4zm2-1zm5 8zm7 1zm1 4zm-4 8zm-5-9zm-8 3zm0 6zm-5-6zm0 6zm0-1zm0-10zm-4 5zm-3 3zm-2 3zm-7-1zm-1-3zm-2-5zm-2-1zm-3 4zm-3 2zm-3-4zm-3-3zm-8 9zm-1-4zm-1-3zm-1 4zm-4 0zm-1-5zm-6 6zm-3-6zm-5 9zm-3 0zm-3-10zm-1 4zm-6 4zm-1 2zm-2 1zm-14-9zm-1 5zm-18 13zm11-2zm5 3zm10-7zm5 7zm1-7zm13 4zm1 3zm9-1zm0-1zm6 4zm9-7zm1 2zm1 0zm12 2zm6-5zm14 3zm3 4zm0-6zm5 2zm13 5zm3-11zm4 0zm19 11zm-1 1zm0 5zm-11 1zm-14 3zm-5 1zm-11-7zm0-1zm-5 3zm-4 3zm-2-4zm-4 1zm-5 0zm-4-2zm-10 2zm-1-1zm-13-4zm0 2zm-9 7zm-3 0zm-2 2zm0 0zm-1-8zm-1-3zm-6 7zm-2 3zm-3 0zm0-5zm-4-5zm-2 3zm-7 4zm-10-2zm-3 5zm-3-8zm-1 1zm-3 5zm-4 2zm0-9zm-5 4zm-28 18zm9-6zm3-5zm0 5zm2 6zm3-3zm4 0zm2-1zm1-5zm10 1zm1 6zm1-9zm1 11zm3-8zm11 7zm5-3zm25-6zm16 4zm8-5zm5 6zm12 4zm6-6zm6-1zm20 8zm5-6zm7 0zm1 3zm12-2zm0 1zm0-7zm5 8zm0-8zm3 2zm28 5zm-12 7zm-2 1zm-16 1zm-5 4zm-10-7zm-1 2zm-6 8zm-4-2zm-2 1zm-5-9zm-6 6zm-9 3zm-3 1zm-2-7zm-10 6zm-8 0zm-4 0zm-7-2zm-1-2zm-9 4zm-9-7zm-1 7zm-2-10zm-15 7zm-2 2zm-1-7zm-13 8zm-3 1zm0-6zm-15 1zm-3-4zm-14 7zm-2 1zm-4 1zm-3-7zm-5 1zm-21-4zm-23 22zm0-4zm20-3zm8 7zm7-3zm5 3zm3-7zm4-4zm1 3zm2 6zm3-8zm17 3zm8 2zm1-5zm1 0zm6 0zm6 4zm1 0zm14 2zm1 3zm5-8zm3 1zm3 7zm4-5zm0-1zm10 7zm1-10zm2 2zm7 3zm1 1zm3-6zm1 0zm0 4zm4 3zm5-6zm4 8zm0-10zm2 6zm5-2zm11 1zm3-2zm1-2zm1 2zm5 1zm7 2zm3 2zm7-2zm5 5zm7-11zm1 5zm6-1zm6 1zm8 1zm11 0zm13-1zm7 12zm-1-4zm-4 8zm-7 0zm-7-2zm-14 1zm-11-7zm-2 8zm0-3zm-5 4zm-1-7zm-7 2zm-4 2zm-25 0zm-4-1zm-6-1zm-12 5zm-1-10zm-1 1zm-4 6zm-4-1zm-9 3zm-10-7zm-2 1zm-13 4zm-2-3zm-7-1zm-5-1zm-1 5zm-1 4zm-4-9zm0 0zm-1 0zm-1 5zm-3-4zm-4 1zm-4 3zm-3-3zm-2 5zm0-8zm-2 4zm-6 0zm-9 4zm-3-1zm-1-8zm0 7zm-8 1zm0-8zm-1 7zm-2 0zm-2 3zm-6-6zm-12 4zm-3-3zm-2-3zm-7 3zm-1 2zm-2 3zm-4-7zm0 0zm-18 7zm-5-7zm-4 4zm-1 0zm-6 0zm-13 16zm14-5zm5 4zm7-7zm1 4zm11-1zm3-3zm2 8zm5-1zm2-4zm2 5zm7-6zm17 2zm8-6zm0 0zm2 9zm19-6zm0 1zm19 3zm3-6zm6 9zm1-9zm2 8zm5 0zm12-10zm6 9zm1-5zm2 1zm7-4zm3 4zm1 0zm3-1zm3 7zm3-4zm3-2zm1 6zm1-8zm2 2zm14 2zm5-5zm4 4zm8-4zm3 9zm13-11zm2 7zm0-1zm4 0zm2 0zm11-4zm2 3zm1-1zm1-3zm1-1zm7 9zm2-1zm3-1zm9 4zm4 0zm15-3zm0 9zm-2 2zm-17-4zm-10 2zm-4 2zm-1-7zm0 10zm-2-2zm-12-2zm-8 2zm-2-2zm-10-1zm-4 4zm-2-2zm-2-1zm-3 5zm-1-5zm-5-4zm-12 5zm0-4zm-1 0zm-1-1zm-1 0zm-1 5zm0 3zm-4-9zm-7 6zm-7-1zm-2-5zm-3 8zm-4 2zm-2-7zm-2 0zm-4-3zm-4 8zm0 2zm-9-5zm0 3zm-14 1zm-4-4zm-1 4zm-3 1zm-5-8zm-6-3zm-8 7zm-11-7zm-2 1zm-3 5zm-2 4zm-6-3zm-7 1zm-2 0zm-2-8zm-5 5zm0-2zm-5 7zm-2-6zm-14 5zm-12-6zm-5 6zm-5-7zm-2-2zm-5 6zm-1 0zm-8-1zm-2-4zm-3 9zm-7-6zm-1-4zm-2 10zm-3-5zm0-1zm-2-2zm-4 1zm-17 2zm2 9zm3-1zm2 3zm2 0zm0 6zm1-3zm8-6zm13 3zm6 3zm8-7zm17 8zm10 3zm1-3zm6 1zm0-7zm3 8zm3 0zm10 1zm2-5zm2-4zm2-1zm1 6zm7 0zm4-7zm1 4zm4 5zm8-2zm6-4zm6 8zm3-4zm4-7zm6 5zm9 4zm0 0zm3-1zm8-5zm3 0zm1-1zm3 5zm2-7zm5 6zm9-4zm0 1zm4 2zm3-5zm1 0zm7 10zm3-2zm1-1zm3-5zm0 9zm7-10zm3 1zm5 5zm11 0zm6-1zm7-3zm3 2zm2 5zm6-7zm6 7zm1 0zm3-3zm1-4zm1 3zm2-6zm2 5zm6 4zm6-6zm0 1zm1 7zm8-5zm2-4zm3 7zm2-8zm2 3zm22 17zm-9-5zm-3-2zm0 2zm-5 2zm-4 3zm-16-7zm-2 5zm-4-5zm-6-1zm-14-1zm-7 10zm-13-2zm-30 1zm-1-8zm-2 2zm-20-3zm-9 5zm-27 3zm-2-2zm0-6zm-4 2zm-1 9zm-6-10zm-9 7zm-11-2zm-1-3zm0 7zm-2-5zm-3 5zm-8 1zm-4-6zm-11 3zm-7-4zm-3 3zm0-5zm-4 9zm0-8zm-6 8zm-3-8zm-1-3zm-8 2zm-1 6zm-17-5zm0 6zm-1 1zm-1-2zm-6 1zm-6-9zm-11 4zm-3 7zm-1-1zm-1-5zm-11 2zm-1-7zm-2 4zm0-4zm-6 8zm-1 3zm-1-6zm-1-5zm-8 3zm-2 6zm-12-3zm-2 4zm-13 4zm12 5zm3-7zm5 5zm2 4zm7 2zm4-9zm0 4zm5 1zm3-1zm4-3zm3 5zm15 0zm1-7zm2 6zm2-6zm3-1zm3 6zm3 2zm36-4zm22 4zm19-7zm3 1zm5 7zm11-5zm1 5zm4-2zm4-7zm2 10zm0 1zm1-11zm4 3zm2 8zm4-5zm0 5zm0-4zm6 4zm3 0zm0 0zm0-5zm2 3zm5-1zm2-7zm1 4zm0 6zm3-11zm6 0zm3 8zm0-6zm11 2zm2-2zm5 3zm7 2zm1-3zm13 2zm5 5zm1-1zm6 0zm6 1zm4-9zm8 2zm0 7zm8-3zm7-2zm5-1zm8-4zm10 9zm1-8zm3 9zm1-2zm1-7zm1 4zm1-6zm4 10zm11-3zm8-2zm1 5zm3-6zm10 4zm2 14zm-8 0zm-3-8zm-4-1zm-1 7zm-5-4zm-1 5zm-12-4zm0 0zm-1-4zm-3 3zm-6 5zm-1-4zm-1-3zm-1 0zm-6-2zm-5 2zm-3-2zm-1 7zm-2 3zm-16-7zm-3-1zm-2 4zm-9-5zm-2 3zm0-2zm-3-1zm-5 7zm-2-6zm-8 5zm-1-7zm-3 8zm-3-8zm-3 2zm-6 8zm-1-10zm-3 9zm-10-4zm-6 4zm-1-7zm-1 0zm-1-2zm-5 1zm-3-1zm-10 8zm-1 0zm-1 2zm-1-9zm-4 0zm-2 6zm-5-5zm-8 7zm-1 1zm-8-4zm0-6zm-2 3zm-11 6zm0-3zm-4 5zm-8-11zm-2 5zm-5-3zm-6 7zm-5 2zm-3-3zm-1-8zm-2 8zm-4 1zm-6-5zm-2 2zm-2-5zm-9 9zm-8-1zm-5-8zm-11 5zm-2-2zm-7 6zm-4-9zm-16 0zm-5 5zm-4-2zm-7-2zm0 6zm-5-7zm-7-1zm-4 4zm-3-4zm-3 6zm-18 0zm-1-2zm6 14zm0-4zm3 3zm18-1zm4 1zm2-2zm0 3zm1 1zm3-5zm0 1zm4 3zm1 1zm3 2zm0-8zm0-1zm2 2zm2 7zm2-1zm3-2zm2 3zm4-4zm3 2zm3 1zm2-6zm1 4zm6-4zm4-1zm3 6zm8 3zm7 0zm16-10zm6 0zm12 3zm7 1zm9-2zm1 9zm9-4zm3-1zm3-5zm6 8zm7-4zm1-4zm1 3zm13-1zm4 3zm2 3zm2-3zm1 0zm7 4zm3-3zm9 4zm4-3zm8 2zm1 0zm1 0zm1 0zm1-7zm2-2zm5 4zm7 3zm0-8zm2 10zm5-8zm0 1zm2-2zm1 10zm1-4zm7 1zm4-7zm1 2zm17-2zm1 5zm4 3zm6-9zm9 4zm15 2zm3 3zm2-3zm5 4zm2-10zm2 4zm5 2zm1 1zm2 1zm2 1zm0-5zm3-2zm2 2zm5 1zm3 6zm12-4zm3 0zm3 4zm0-7zm1-2zm2 1zm29 12zm-14 1zm-4-4zm-1 5zm-18 2zm-3-4zm0 1zm-4-2zm-2 0zm-6 0zm-3 4zm-2-4zm-17-1zm-5 7zm-5-2zm-8 5zm-2-7zm-2-3zm0 2zm-1-1zm-10 3zm0 6zm-5-3zm-10-8zm0 5zm-3 0zm-3-5zm-18 4zm0 0zm0 7zm-5-5zm-10 5zm-6-11zm-6 10zm0-10zm-2 10zm-8-1zm-3-9zm-8 4zm-1 7zm-4-3zm0-6zm-1 0zm-1 8zm-2-1zm-9 2zm-11-9zm0 3zm-3 6zm0-9zm-4-1zm-2 1zm-3 5zm-1 1zm-3-1zm-1-1zm-2-6zm-6 3zm0 4zm-4-3zm-8 4zm-1 2zm-1-5zm-2 0zm-8 5zm-13-1zm-9-6zm-4 7zm-1-3zm-2-6zm-1 8zm-1-7zm0 5zm-1 2zm-2 2zm-4-8zm-2 4zm-3-5zm-1 2zm-3 2zm-15-2zm-3 5zm-14-7zm0 0zm-2 6zm-1 3zm-6-10zm-6 5zm-3 5zm0-2zm0 2zm-6-7zm-6 7zm0-4zm-6 0zm-9 4zm-9-5zm-2-5zm-1-1zm-2 1zm-1 2zm-4 4zm-16 8zm1 4zm2 4zm9 0zm1-10zm3-1zm4 11zm6-2zm3 1zm1-5zm2-4zm3 0zm4 1zm4 5zm7-1zm4 3zm3 0zm5 1zm5-7zm0-1zm6 8zm2-8zm5 8zm3-9zm2 8zm0 0zm1-2zm12 2zm2-1zm4-6zm5-1zm2 1zm1 9zm7-7zm1 5zm1-3zm13-5zm1 2zm1-1zm2 3zm5 3zm2-1zm4 1zm2-4zm1 5zm22-5zm1 4zm9 0zm0-3zm3 2zm4-6zm3 9zm1-10zm2 4zm1-3zm0 8zm2-2zm2-1zm1-3zm2 1zm21 4zm4-6zm5 0zm6-2zm1 6zm2 5zm8-7zm3 1zm6 5zm5-9zm2 8zm4-7zm4 0zm8 7zm10-6zm17-1zm18-1zm6 9zm1-3zm3-1zm0 0zm4-6zm1 10zm3 0zm1-6zm0 3zm2-3zm3-3zm18 8zm0-8zm6 4zm2-3zm3 5zm4-6zm6 2zm7 3zm2 3zm3-7zm11 2zm4 1zm6-5zm11 0zm12 10zm1-3zm7 11zm-4-4zm-8 4zm-4-3zm-9 4zm-12 1zm-1 1zm-12-3zm-5 5zm-4-11zm-4 11zm-5-2zm0-4zm0 5zm-5-6zm0 2zm-2 0zm-5-6zm-1 8zm-1-3zm-5-3zm0 3zm-1-3zm-3 9zm-3-9zm0 1zm-14-1zm-3 1zm-1 5zm0 0zm-12 1zm-1-8zm-3 6zm-2 4zm-4 0zm-7-3zm0-5zm-4 5zm-2-5zm-12 7zm-5-2zm-4-8zm-10 7zm-2 1zm-1 0zm-3-5zm-12-1zm-3 9zm-8-4zm-5-3zm-18 0zm-1 2zm-5-3zm-7 3zm0 0zm-2-4zm-4 0zm-1 0zm-10 1zm-10 5zm-15 1zm-11 1zm-5 0zm-7-2zm-6 1zm-4-6zm-1-1zm-2 2zm-1 7zm0 0zm-7-4zm-1 0zm0-7zm-4 4zm-1 7zm-8-3zm-4-2zm-4 0zm-1-6zm-2 6zm-3-1zm-4 3zm0-1zm-3-1zm-3 4zm-10 1zm-3-5zm-2 5zm-4-1zm0-8zm-10 6zm-11-8zm-6 4zm-8 6zm-1-2zm-3-3zm-1 2zm-4-1zm-2-3zm-5 8zm-3-8zm-1 8zm-1-2zm0-3zm-1-5zm-2 2zm-1-2zm-3-1zm-7 3zm-2 16zm2-2zm8 0zm0 1zm15-3zm5 2zm5 4zm1-6zm10 6zm6-4zm9-3zm9 4zm1-3zm6-3zm5 10zm4-6zm2-4zm1 2zm10 5zm9-3zm3 3zm4-6zm1 0zm2 10zm2-6zm18 2zm0 4zm4-7zm5 2zm12 5zm6-4zm5-5zm2 4zm1 3zm3-8zm2 9zm7-1zm7 0zm1-9zm12 9zm5-5zm5-4zm1 10zm5-4zm2-2zm8 4zm0 3zm1-7zm4-2zm4 9zm0-2zm2 1zm4-5zm4-2zm3-2zm21 2zm10 0zm1 5zm6-8zm3 11zm4-10zm3 9zm3-2zm0-3zm5 4zm4-6zm13 3zm8-6zm0 8zm3 3zm1-8zm10 5zm4-7zm5 3zm4 4zm4 3zm1 0zm0-3zm4-8zm0 9zm2-5zm0 4zm6-4zm2-3zm0 1zm5 6zm0-3zm1 4zm1-3zm2 3zm4-1zm2-5zm2 7zm1-3zm2 0zm4 3zm1-1zm0 1zm4-3zm1 2zm1 0zm1-1zm1 0zm2-7zm0 8zm12-8zm13 1zm6 7zm2-8zm2 3zm11-3zm11 10zm2-4zm8 13zm-3-6zm-1 1zm-17-1zm-1 9zm-6-10zm-2 0zm0 2zm-5-1zm-1 3zm-3 3zm-8-2zm-3 3zm-3-6zm0 4zm-2-6zm-6 5zm-7-5zm-3 8zm-5 1zm-1-3zm-2-1zm-11 3zm-7 1zm-25-1zm-6-5zm-3 4zm-3-6zm0 4zm0 1zm-8 4zm-28-9zm-2 4zm-2 3zm-3 0zm0-7zm-10 5zm-5 1zm-3-6zm-1 3zm-11 1zm-1-2zm-16-3zm-4 1zm-2 4zm-8-3zm-9 0zm-11 5zm-1-6zm-1 5zm-6-3zm-1 1zm-3-3zm-5 8zm-4-2zm-2-7zm-11 0zm-1 9zm-3 0zm-1 0zm0-10zm-4 9zm-23-4zm0-5zm-2 3zm-5 2zm-5 4zm-15 1zm-1-5zm-3 2zm-4 1zm0-5zm-3 1zm-6-3zm-2 1zm-2 4zm-2 2zm-2 3zm-3-1zm-23-5zm-4-2zm-5-1zm0-2zm-8 1zm-7 9zm-5-3zm-1-7zm-7 1zm-3 8zm-4 2zm-7-3zm-1-4zm-1 7zm-3-2zm-6 1zm-2 1zm-1-11zm-12 16zm2-3zm1 9zm5-3zm7-5zm7 8zm2-4zm1-3zm4-2zm0 1zm5 8zm8-9zm0 5zm8-2zm2-3zm1 0zm4 6zm13-4zm6 2zm9 2zm1 1zm3-1zm3-6zm1-1zm2 5zm7-1zm1 5zm17 2zm4-2zm11 0zm0-5zm6 3zm4-5zm12 4zm5-4zm8 9zm1-5zm3-3zm1 2zm1 1zm5-5zm3 4zm24 2zm0 1zm5-6zm1-2zm6 5zm2 1zm3 3zm1-2zm11 4zm3 0zm6-8zm10 3zm7 5zm4-11zm4 11zm10-3zm5 2zm0-4zm2 5zm8-11zm0 1zm1 6zm3-7zm7 11zm1-3zm4-3zm4-2zm4-3zm3 4zm5 1zm3 5zm4-4zm3-6zm18 3zm0 0zm2 7zm7-6zm1-2zm0-1zm10 4zm3 0zm2 6zm3-4zm2-2zm8 5zm13-7zm5 5zm5-3zm1 6zm6-5zm0-2zm0 2zm3-4zm9 0zm8-2zm4 11zm4-1zm4-8zm3 7zm20-3zm1 3zm2 0zm2 1zm13-3zm3 12zm-12-5zm-8 1zm-6 6zm-2-8zm-4 5zm0-4zm-7 1zm-1 0zm-1 1zm0 7zm-8-1zm-1-8zm-2 5zm-10-7zm-2 4zm-2-1zm-2-3zm-15 1zm0 4zm-1 2zm-3-1zm-1 0zm0 4zm-7-3zm-1 3zm-1-10zm0 9zm-1 1zm-10-9zm-11 2zm-6-3zm0 3zm-3 1zm-1 4zm-1 3zm-4-6zm-1-2zm-1 0zm0 4zm-1-2zm-13-2zm-5 5zm-7-1zm-7 3zm-19-9zm-5 2zm-2 4zm-6-2zm-17 3zm-1 0zm-2-4zm-14 3zm-2 4zm-9-4zm-1-7zm-9 8zm-1-6zm-10 4zm-6-1zm-2 0zm0-2zm-4-3zm-6 1zm-1 6zm-5 3zm-6-9zm-4 3zm-4-4zm-1 3zm-2 1zm-1-2zm-5 1zm-1 7zm-25-8zm-12 1zm-6 4zm-6-5zm-5 5zm-6 2zm-6-4zm-1-1zm-5 2zm-7 1zm-2-7zm-1 11zm-7-9zm-4 2zm-2-1zm0 2zm-5 0zm-1 4zm-4 2zm0-7zm-3 4zm-2 2zm-2-10zm-22 10zm-23-6zm-13-2zm-5 5zm7 6zm5 2zm5 2zm1-3zm6-1zm7 4zm0 3zm12-7zm2 0zm0 9zm8-9zm9 2zm2 3zm5-4zm3 5zm4-7zm5 1zm9 6zm8-4zm2 3zm7 2zm4-6zm7 0zm7 9zm10-5zm2 2zm5-4zm2 0zm15 4zm17-4zm3 4zm1-3zm2 2zm2-4zm4 6zm7-8zm8 1zm3 1zm16 5zm6-5zm1 1zm5-1zm3 8zm3-6zm5-4zm2 0zm7 6zm9-1zm0 2zm4-7zm14 2zm7 2zm5 2zm3 0zm8-3zm1 7zm3-2zm9-1zm2-8zm7 0zm2 6zm8 1zm3 1zm0 3zm5-10zm10 10zm7 0zm4-9zm3 3zm10 4zm3-9zm1 9zm7-6zm1 7zm0-4zm1 2zm1-3zm6-3zm0 2zm8 1zm1 4zm5-5zm6 2zm1 4zm1 0zm8-5zm5 5zm18-3zm4 1zm1-1zm0 2zm2-1zm7-2zm7 4zm5 0zm2-4zm1 2zm3-4zm10 2zm4 3zm0 2zm3-7zm1 5zm1-9zm15 17zm-8 1zm-6-5zm-5 3zm-9-2zm-4 4zm-6-2zm-1 0zm-2-1zm-1-3zm-3 3zm0 2zm-7 4zm-1-5zm-6 5zm-3-4zm-30 6zm-4-8zm-5 3zm-4-6zm-1 0zm-1 10zm-5-8zm-6 2zm0 2zm-1 4zm-7-10zm-3 3zm0 3zm-15-4zm-1 6zm-4-1zm-3-4zm-1 1zm-1 6zm-1-1zm-5-6zm-4-1zm-3 2zm0 0zm0 4zm-3-7zm-5 3zm0-3zm-4 7zm-4-3zm-2-3zm0 9zm-11-10zm-20 6zm0-2zm-1 6zm-6-2zm-1-3zm-4-6zm-4 6zm-7-6zm-5 10zm-1-5zm-3 6zm-2-3zm-2-5zm-7 2zm-7 4zm-3 0zm-1-9zm-2 3zm-6 5zm-3-8zm-11 8zm-4 2zm-1-8zm-1 6zm-6-8zm-1 5zm-2-4zm-1 4zm-4-4zm-6-1zm-3 1zm-7 6zm-7-4zm-8-3zm-12 2zm0 4zm-2 1zm-1-3zm-1 3zm-2 0zm-1 1zm-12-4zm-9 6zm-3-10zm0 4zm-5 7zm0-1zm-3-3zm-1-3zm-6-1zm-3 7zm-4-5zm-4-3zm-6-1zm-21 0zm-2 4zm-1 6zm-5-5zm0 1zm-7-5zm-6 1zm-5-1zm-14 0zm-7 5zm-23-7zm35 14zm26 3zm6-4zm12 7zm9 1zm1-3zm13 1zm5-5zm6-2zm2 3zm4 7zm21-5zm6 4zm6-8zm2 2zm4 1zm4-1zm0-2zm3 3zm6 0zm11-1zm5 0zm8 7zm9 1zm11-2zm0-5zm6 6zm2-8zm0 2zm17 4zm10-8zm6 6zm3-2zm6 0zm4-2zm8 6zm1-3zm3 3zm3-2zm1 5zm1-9zm16-1zm1-1zm6 1zm16 2zm5 1zm6-2zm0 5zm8 1zm4 0zm3 2zm9-10zm2 1zm4 10zm12-10zm3-1zm0 7zm0-1zm4-5zm3-1zm5 5zm2 6zm0-3zm3 2zm3 0zm6 0zm8 0zm10 0zm2-4zm3 2zm16-2zm2-4zm10 8zm4-2zm4-4zm13 0zm4-4zm0 2zm8 8zm3-7zm1 1zm1 1zm4 1zm8-4zm4 4zm2 2zm5 14zm-3-7zm-12 5zm0-7zm-13 3zm-5 2zm-4-4zm-4 0zm-2 4zm-5-2zm-2-3zm-12 3zm-6 0zm-4 6zm-1-2zm-3-7zm-1 5zm-7-3zm-1 7zm-1-4zm-11-5zm0 0zm-5 10zm-3-10zm-4 3zm-2-2zm-4 1zm-4 2zm-5 0zm-11 0zm-3-4zm-9 5zm-7 3zm-11 0zm0-4zm-5 5zm-4-8zm-30 2zm-1 6zm-14-4zm-2 2zm0-2zm-16-2zm-15-1zm-4 7zm-1-3zm-7-4zm0 2zm-4-5zm-2 0zm-2 8zm-2-6zm-20 0zm-6-2zm-1 9zm-4-9zm-4 0zm-13 8zm-16 0zm-1 3zm-10-2zm-17-5zm0 2zm-3 3zm0-7zm-2 0zm-1 7zm-1 0zm-2-8zm-25 8zm-2 0zm-3-9zm-4 2zm-5 0zm-4 3zm15 8zm13 7zm5-7zm0 0zm0 6zm2-3zm1-3zm4 10zm6-11zm1 0zm1 6zm2-1zm0-2zm5 3zm0-5zm7 5zm4 5zm4-10zm1 7zm1-7zm5-1zm2 11zm2-9zm13 4zm3-6zm2 6zm16 5zm9-9zm1 7zm2 2zm1-11zm6 9zm0 1zm2-8zm14 1zm3-3zm7 5zm3-5zm7 9zm1-1zm1 0zm1 2zm1-5zm7 1zm7-6zm4 5zm3 1zm3-3zm14 5zm3-3zm3 2zm0 4zm6 0zm1-5zm0 3zm8-8zm2 5zm3-6zm4 4zm5 4zm1 0zm0 2zm4-9zm12 10zm3-6zm3 1zm2-3zm3 1zm1 2zm8-2zm4-2zm0 7zm7-8zm10 4zm1-1zm3 5zm1 0zm8-5zm3 0zm3-3zm19 7zm0 0zm10-6zm6 5zm1 1zm8-2zm4-4zm8 4zm1-2zm23-3zm9 8zm5 0zm0-6zm9 14zm-5 1zm-7-2zm-2-1zm0-3zm0 2zm-1 0zm-12 1zm-6-1zm-3 5zm-5-7zm-14 2zm-7 2zm-8 5zm-1-8zm-1 10zm-11-11zm-11 5zm0 5zm-1-8zm-2 7zm-5 2zm0 0zm-21-8zm-2 6zm-2-3zm-8 0zm-4-5zm-2 5zm0 3zm-5-7zm-7 3zm-2 5zm-21 1zm-3-4zm-6 0zm-4-1zm-1 0zm-17-5zm-2 5zm-3-5zm-1 1zm0 0zm-1-1zm-13 6zm-1 4zm-3 0zm0-11zm-8 0zm0 11zm-4-6zm-10-2zm-1 7zm-5-4zm-7 4zm-1-8zm-3 2zm-4 7zm-3-10zm-6 1zm0-1zm-5 5zm-6 5zm-1-10zm-1 1zm-3 6zm-1-2zm-3-6zm-7 0zm-3 7zm-1-4zm-5-1zm-1 3zm0 1zm-10-1zm-6-5zm-9 7zm-2 3zm-4 1zm-10-2zm-2 1zm-1 0zm-1-6zm-4 0zm-6 0zm-8 3zm-3 4zm-4 0zm-1-8zm-2 2zm-9 0zm-2 2zm12 12zm1 4zm13-3zm1-7zm13 4zm8 5zm1-9zm1 3zm0-3zm12 3zm9-2zm8 5zm15 0zm1 0zm13-1zm4-1zm1-5zm4 11zm11-4zm12-3zm1-2zm7-2zm4 8zm0 3zm2-1zm6-4zm8-6zm1 11zm4-7zm2-2zm0 5zm6-3zm1 2zm4-3zm3 8zm5-9zm5-1zm7 7zm2-1zm3-7zm3 8zm2-6zm2 9zm8-8zm0-2zm9-1zm0 0zm12 6zm2-3zm9 6zm1-1zm0 2zm3-6zm1 7zm4-9zm7 4zm2 5zm1-6zm3-5zm8 6zm18-3zm7-3zm3 11zm0-9zm1 6zm2 2zm2-2zm3-3zm3 4zm1-6zm6 3zm1 0zm2-2zm7 5zm2-1zm8-6zm9-2zm2 6zm2-1zm4 4zm1 1zm1-9zm1 7zm4-7zm3 8zm16-4zm4 1zm-12 15zm-4-5zm-1 7zm-7-10zm-3 2zm-3 4zm-1 3zm-1-10zm-5 7zm0-2zm-1-1zm-4 6zm0-6zm-24-3zm-4 8zm-13-7zm-1 0zm0 4zm-2-3zm0 6zm-4-1zm-2-7zm-1 4zm-3-2zm-1 4zm-4-2zm-19-5zm0 3zm-3-3zm-7 7zm0 1zm-3 1zm-11-2zm-2-5zm-4-1zm-8 1zm-6 2zm0 4zm-8-2zm-6-4zm0 5zm-1 4zm-8-6zm-4 6zm-3 0zm0-2zm-3-1zm-2-8zm-14 10zm-2-3zm-1-7zm-2 4zm-5 7zm-5-9zm0-2zm-4 3zm-24 0zm-3 1zm-2 4zm-3-5zm0 4zm-5-3zm-27 7zm-1-10zm-64 4zm-3 2zm-3 4zm-2-8zm-12 1zm-2-2zm-2-2zm-3 1zm-6-1zm108 16zm0 3zm4-4zm3 2zm2 1zm1 2zm1-1zm2-7zm2 0zm2 1zm2 9zm1-9zm4 4zm3 5zm1 0zm4-8zm4 8zm1-4zm8 0zm2-3zm10 4zm3-4zm7 4zm1-6zm2-1zm6 4zm1 4zm7-7zm12 2zm4 8zm3-4zm8-3zm1 1zm3 6zm1 0zm0-10zm0 1zm4 9zm5-6zm0 4zm6-2zm16 3zm7 0zm8-8zm5 8zm0 0zm1-4zm11-2zm4 5zm4-9zm0 10zm5-4zm1-1zm1 0zm2-1zm4 2zm1-5zm5 10zm4-11zm0 9zm3-5zm3 4zm6-4zm0 1zm3 4zm18-5zm10 6zm5 0zm11-7zm-6 12zm-5 7zm-5-1zm-1-8zm-1 2zm-1 5zm-6-1zm-4-7zm-1 9zm-1-2zm-8 3zm-1-9zm-1 3zm0 6zm-8-7zm-4-2zm-5 7zm-5-6zm-6-1zm-1 2zm-2 8zm-3-6zm-14 1zm-3-6zm-6 9zm-2-3zm-4-5zm-1 5zm-4 4zm-2-9zm-3 4zm-4-4zm-8 4zm-1 6zm-1-5zm-20 2zm-2 3zm0-2zm-3-3zm-4-4zm-3 3zm0 4zm0-7zm-3-2zm-2 10zm-7-4zm-5 0zm-2 0zm-1 0zm-1-6zm0 11zm-6-1zm-1-4zm-7-6zm-2 10zm-3 1zm-6-9zm-1 1zm-1 6zm-3-4zm-9-3zm0-1zm-2 5zm-7-1zm-1 1zm-10-2zm-5-3zm57 12zm5 6zm2-3zm1 3zm5 3zm6-9zm2 9zm1-4zm1 2zm2-6zm1 0zm0 7zm7-7zm7 6zm5 0zm1 2zm1-7zm1-1zm7 0zm1 5zm5 4zm2-3zm3-1zm13 1zm4-3zm5 4zm1 0zm1-8zm5 4zm3 3zm1 1zm0-3zm1 0zm4-1zm0 0zm4 5zm1-5zm4 1zm0 2zm1 1zm2-1zm5 0zm11-3zm1 3zm7 2zm0-2zm11-3zm8-1zm9 5zm0-5zm7 6zm2-1zm1-7zm3 1zm-2 13zm-2-2zm-8-2zm-5 0zm0 7zm-2-5zm0 3zm-4 5zm-2-4zm-5-6zm-1 8zm-4-7zm-3 3zm0 0zm0-3zm-4 4zm-4-3zm-5-1zm-26 6zm-12-4zm-8 4zm-2-3zm-16 2zm-7-5zm0-1zm-1 1zm-36 4zm-6-3zm-23-2zm46 18zm4-6zm6 2zm8 4zm3-1zm8-4zm1 3zm4 0zm4 3zm2-5zm1 5zm1-6zm1 5zm2 4zm10 0zm0-2zm1-8zm12 7zm5 0zm4-1zm6-1zm13-3zm0-2zm4 6zm5 5zm13-4zm4-7zm9 2zm-4 10zm-6 2zm-9-1zm-8 0zm-1 7zm-3 1zm-4-3zm-8-4zm-3 5zm-7-2zm-3 6zm-1-4zm-1-7zm-10 4zm-3 4zm-6 2zm-6-4zm-5-4zm-5 4zm-4 5zm-3-7zm-2-1zm-10-2zm6 16zm18 1zm5-2zm24 5zm1-4zm2 3zm2 0zm0-2zm4-3zm4-3zm5 7zm5 0zm5 4zm-21 9zm-13-4zm-4 1zm-22-5z"/>
<path id="h0_2" d="M697 2224zm-6 4zm-63 3zm-10 0zm-13 11zm4-1zm1 0zm15-4zm4-5zm17 7zm7-1zm3 2zm15-2zm10 3zm8 0zm6 0zm2-5zm2 5zm11 6zm-5 4zm-1 0zm-1 1zm-9 2zm0-8zm0 7zm-1 1zm-7-5zm-13 2zm-4-5zm-1-1zm-12 1zm-2 9zm-2-7zm-8-4zm-2 9zm-1-7zm-8 8zm-5-1zm-2-8zm-3 5zm-4-3zm-1 6zm-4-5zm-17 5zm-1-1zm0 0zm-11 1zm0-2zm-14 16zm4-1zm5-5zm2-5zm14 3zm1 6zm2-7zm3 2zm10 2zm3 4zm19-8zm4 1zm0 4zm8-4zm11-2zm11 8zm0-2zm1 4zm2-3zm11 0zm9-6zm1 6zm0-8zm3 7zm13-3zm3 1zm7-2zm2 8zm2-2zm-15 8zm-6-5zm-1 5zm-6-1zm-6-1zm-17 8zm0-2zm-6-5zm-16 0zm-13-4zm-21 4zm-1 0zm-3 3zm-15-6zm-9 10zm-5 0zm-5-4zm-1 1zm-44 5zm17 5zm7 0zm1-6zm18 5zm2 6zm10-1zm1-5zm8 4zm11-7zm5 9zm7-8zm6 5zm2 1zm9-3zm3 2zm2 2zm4-7zm3 1zm4 5zm1 2zm3-10zm11 9zm4-3zm4 2zm18-4zm3 5zm10-5zm1-5zm5 7zm18 1zm7-4zm9 14zm-2-1zm-2 2zm0 1zm-10-2zm-9 5zm-8-2zm-3 2zm-3-8zm-10 1zm-9 7zm0-10zm-6 9zm-12 0zm0-6zm-2-3zm-1 10zm-18-10zm-2-1zm-13 2zm0 6zm-9-3zm-2 3zm-14 3zm-3-3zm-2-8zm-7 5zm-1-3zm-20 8zm-1-5zm-3-2zm-9 4zm-5-1zm-1 4zm-4-6zm-3-4zm-4 7zm-4 1zm-5-2zm-1-5zm-8 6zm-5 4zm-4-1zm0-6zm0 2zm-1 3zm0 2zm-4-2zm-10 2zm-3 8zm16-7zm11 5zm5 5zm7-7zm1 3zm4 2zm6 0zm0-4zm7 0zm1-2zm8-2zm0 10zm8 1zm6-1zm7-8zm10 6zm1-2zm1-4zm1 4zm8 0zm8 2zm9-5zm5 6zm3 0zm7-9zm5 4zm18 6zm0-7zm0-2zm3 6zm4-6zm9-1zm1 9zm0-5zm2 6zm1-1zm8-2zm4 2zm11 2zm0-6zm14 1zm0-1zm6-1zm1-1zm4 0zm2 6zm10-1zm4-1zm8 6zm0 8zm-5 2zm-4-6zm-2-1zm-5 0zm-4 4zm-1 2zm-9-5zm-5 6zm-4-4zm-5 3zm0-2zm-5-4zm-3 2zm-6-2zm-21 2zm-1 4zm-9-8zm-15 5zm-5-7zm-5 9zm0-3zm-4 2zm-3-1zm-2 4zm0-8zm-3 8zm-1-1zm-11 1zm-1 0zm-2-1zm-14-8zm-1 4zm-2-6zm-1 8zm-3-8zm-4 3zm-2-2zm-6 10zm-4-10zm-23 8zm-3-2zm-8-3zm-30-3zm-1 5zm-6-5zm-7 3zm-14 5zm-7-6zm0 7zm-29 8zm4-1zm4 2zm5 2zm4-5zm2 1zm3-1zm1 7zm15-1zm10 1zm1-10zm7 9zm12-9zm1 10zm10 0zm2-9zm6 9zm3-3zm0-2zm3 0zm10 0zm8-3zm7 0zm0 7zm2-1zm1-9zm5 9zm1-3zm2-3zm4 2zm15-5zm4 4zm2 6zm4-5zm1 4zm12-4zm0 0zm3 0zm8 0zm1 5zm21-2zm0-5zm7-1zm2 3zm8 4zm8-9zm2 5zm5-1zm4-3zm2 5zm14-4zm12 2zm3 2zm12-5zm2 5zm1-1zm1 0zm2 5zm4-9zm7 6zm6-3zm-14 19zm-6-8zm-1-3zm-12 10zm-7-9zm-2 0zm-2 4zm-13-5zm-5 10zm0 1zm-5-9zm-20 5zm-4-6zm-4 6zm-1 3zm-7-5zm-10 6zm-2-6zm-3 0zm-2 0zm-7-2zm-2 7zm-5-10zm-33 4zm0 4zm-4 3zm0-10zm-4 1zm-10 8zm-7-5zm-6-1zm-1 4zm-1-8zm-11 0zm-19 0zm-5 4zm-2 2zm-6 1zm-13 0zm-1 0zm-9 3zm-2-5zm-2 2zm0-1zm-7-6zm-7 7zm-1 1zm-16-8zm-5 7zm0 1zm-10-3zm-6 2zm-9-2zm-8 5zm-13 10zm3 2zm7-9zm2 6zm3-6zm1 9zm15-10zm8 0zm7 5zm2 6zm9-8zm8 0zm11 6zm12-7zm5 2zm28 5zm1-2zm2-5zm2 2zm14 3zm8-1zm7-6zm15 5zm11-4zm6 8zm10-3zm22 0zm2-1zm6 0zm1 1zm20 2zm1 1zm2-6zm3 4zm15-7zm14 10zm10-3zm9 2zm1-9zm7 2zm14 6zm2-6zm9 3zm2 5zm-1 2zm-4 9zm-7-9zm-4 2zm-3 2zm-2 0zm-3 6zm-1-4zm-1-3zm-2 6zm-22-2zm-13-2zm-1 3zm-2-4zm-5 0zm-5 5zm-1-3zm-6 2zm-1-6zm-1-1zm-7-1zm-2 11zm-14-6zm-1 5zm-7-5zm-3 4zm-9 1zm-3-6zm-15 5zm-3 1zm-12-10zm-2 8zm-3-7zm-11 7zm-5 3zm-11-11zm0 5zm-10 1zm-2-6zm-5 6zm-3 5zm-4-11zm-6 10zm0-1zm-14-8zm-2 9zm0 0zm-5-1zm-8-8zm-2 2zm-6 5zm-1-2zm-3 4zm-5 0zm-2-3zm-2-5zm-6 6zm-4 1zm-16-2zm-1 1zm-1-8zm-3 8zm-12-4zm-3-4zm-18 7zm-11-7zm-5 6zm-3-1zm-5 2zm-1 13zm5-8zm1 8zm7-3zm2 3zm2-4zm1 6zm4-8zm3 4zm9 1zm4-2zm7 3zm8-4zm4 3zm1 3zm2 0zm21-7zm1-1zm14 9zm26-7zm1 4zm15 2zm3-4zm2-6zm3 5zm6 5zm10-7zm15-1zm23 8zm0-2zm1-4zm25-1zm9 5zm1 2zm0-7zm3 1zm0 4zm8 0zm3-5zm0 6zm13-3zm8 2zm6-5zm2 5zm0 1zm3-1zm3 3zm14-11zm5 5zm3-4zm2 3zm13-1zm7 2zm9-4zm0 4zm1 0zm4 0zm1-5zm17 7zm1-3zm15 2zm9 5zm3 6zm-2-1zm-17-4zm-2 9zm-9-9zm-11 6zm-4 4zm-5-1zm-14 1zm-5-4zm-11 0zm-3-2zm-1-4zm-21 8zm-17-5zm-4 2zm-8 2zm-1-1zm-5-4zm-1 9zm-9-8zm-13 7zm-16 1zm-3-10zm-2 10zm-2-6zm-5 4zm-2-4zm-2-5zm-15 7zm-12 2zm-12-1zm-1-5zm-3-3zm-6 6zm-13-5zm-19 2zm-13 3zm-11 1zm-6-4zm-1 0zm0 5zm-2-2zm-4-3zm-7 8zm-8-10zm-9 4zm-1-1zm-2 2zm-8 4zm-11 0zm-1-2zm-5 0zm-1-8zm-3 8zm-1 1zm0-5zm-11 7zm-4-11zm-9 10zm-4 0zm-4 12zm1-8zm2 9zm2-8zm10 8zm0-5zm2 3zm17-2zm6-6zm11 10zm4-3zm6-4zm1 1zm5 4zm2-4zm0 3zm12 2zm13-5zm1-1zm6 3zm2-7zm3 3zm0-3zm1 5zm2-1zm1 7zm9-5zm1-1zm7-4zm3 3zm2 6zm1-10zm5 11zm2 0zm2-8zm23 8zm1-3zm7 1zm6-1zm0 2zm10-4zm21-4zm2 1zm7 3zm8 2zm6-3zm3 1zm1 5zm10-2zm13-6zm8-3zm3 4zm6 3zm17-7zm6 9zm14-4zm1-1zm1-4zm2 4zm3 7zm12-9zm2-1zm0 9zm5-5zm13-3zm47 6zm11-4zm11 19zm-15 0zm-5-11zm-4 8zm-4 3zm-2 0zm-11-6zm-2-2zm-2 0zm-3 6zm-33-5zm0 5zm-11-9zm-7 7zm0 4zm-3-10zm-2 9zm-17-8zm-8 8zm-9-9zm-11 3zm-5-3zm-1-1zm-6 1zm-2-1zm-3 3zm-2 6zm-9-6zm-12-3zm-2 2zm-5 7zm-9-9zm-4 5zm-14 6zm-3-9zm-2 7zm-10-1zm-11-2zm-6-3zm-15 7zm-3 0zm-2-5zm-1 6zm-18-1zm-5 1zm-12-5zm-4 2zm-3-3zm-3-5zm-3 5zm-2 2zm-2-5zm-4 6zm-2 2zm0-10zm-10 9zm-36 2zm-10-2zm-18 2zm-4-3zm-27 13zm11 2zm4-7zm1-4zm4 2zm3 6zm0-1zm1 0zm9 3zm2 0zm3 1zm8-2zm2-9zm0 4zm3 3zm4 1zm0-1zm6 4zm11-7zm11-1zm1 1zm1 5zm6 2zm6-3zm3 0zm0 3zm1-6zm1 2zm9 1zm41 2zm4-1zm12 2zm15-7zm9 7zm9-5zm15-3zm3 2zm7-2zm0 1zm5-2zm0 7zm15 0zm3-4zm20-4zm12 1zm4 2zm6 7zm15-9zm1 2zm5 2zm4-4zm4 9zm3-2zm0-2zm3 2zm2-4zm4-2zm5 6zm9-3zm14-5zm2 8zm1 1zm1-3zm4-6zm2 2zm19-3zm11 10zm6-9zm1 0zm7 4zm11-1zm9 4zm27 0zm11 13zm-12-2zm-7 0zm-9-4zm-3-3zm-2 7zm-10-6zm-11 8zm-5-9zm-5 0zm-3 4zm-8 7zm-12-4zm-2-3zm-7 0zm-5-3zm-9 0zm-2 4zm-7 3zm-1-2zm-1-3zm-3 5zm-4-6zm-6-1zm-1 9zm-5-10zm-6 3zm-1 4zm-6-1zm-8 3zm-4-2zm-4 0zm-2-5zm-2 8zm-7 0zm-32-9zm-16 0zm-1 3zm-9 5zm-1-3zm0-6zm-5 8zm-4-3zm-9-5zm-10 5zm-10 1zm-16 1zm-3 1zm-5-8zm-8 7zm-3-5zm-1 7zm-11-1zm-3-7zm-11 6zm-6 0zm-6-1zm-15 1zm0 3zm-2-4zm-2-6zm-53 0zm-5 4zm-10 6zm-3-10zm-11 4zm-3 5zm-4-9zm-2 9zm-4-9zm-7 19zm9 1zm1-5zm1 4zm2 4zm10-10zm3 6zm0 3zm6-8zm6 7zm1 1zm1 0zm2-7zm31 6zm4-8zm10 2zm3 8zm10 0zm9-1zm21-1zm2-7zm3-2zm0 6zm8 3zm9-6zm4-3zm1 11zm1-1zm8-5zm4 0zm2-2zm2 0zm5 7zm2-10zm3 5zm3 5zm1-5zm7-5zm3 1zm2 9zm3-4zm1 2zm3 2zm2-1zm8-8zm13 3zm3 5zm16-3zm16-6zm6 1zm6 6zm7 4zm0-9zm1 9zm4-10zm10 6zm36-3zm5 0zm0 4zm5-2zm5 5zm8 0zm12-4zm5 3zm23-7zm3 6zm1-8zm1 1zm0 2zm5 2zm20 0zm2-4zm21 0zm2 1zm1 2zm9 6zm4-1zm33 10zm-18-7zm-12 9zm0-4zm-1 0zm-15-3zm-5-3zm-2 11zm0-8zm-6 5zm-1 0zm-4-7zm-6 5zm-6 4zm-3 0zm-1-9zm-4 10zm-1-9zm-2 8zm-1-3zm-1-4zm-8-2zm-4 5zm-1-4zm-2 4zm-8 5zm-5-11zm-1 7zm-1 0zm-12-2zm0 0zm-10 0zm-4-5zm-4 10zm-3-4zm-4 1zm-4-5zm-12 6zm-2-2zm-6 2zm-3-6zm-13 6zm0 0zm0-1zm-4 1zm-2 1zm0 2zm-13-1zm-2-1zm-8 0zm-1-3zm-12-5zm-8 1zm-4 6zm-19-6zm-13 1zm0 4zm-2-7zm-5 1zm-18 4zm-3 5zm0-9zm-11 8zm-3-8zm-14 5zm-3-4zm-8-2zm-5 6zm-2-6zm-2 6zm-3-1zm-15 1zm-17 1zm-6 2zm-3 2zm0-3zm-2-5zm-5 4zm-1-2zm-2-2zm0 7zm-4 0zm-3-4zm-4-3zm-3-2zm-2 0zm-7 1zm-3 8zm-1-10zm-4 8zm-2 1zm-9-1zm-3-6zm-16 4zm-3-2zm-13 5zm-13-5zm6 18zm13-2zm7 2zm3 1zm5-5zm25 3zm2 1zm6-6zm1 5zm1-5zm14 4zm4 3zm10-10zm6 10zm1-2zm2-8zm13 4zm16 5zm10 1zm4-2zm2-7zm0 6zm6-4zm0 4zm15-3zm7 6zm2-11zm6 8zm3-8zm0 5zm18-3zm2 4zm3 0zm0-1zm1 1zm1 0zm11-6zm18 1zm6 6zm14-6zm1 2zm1 1zm3-3zm5 8zm4 2zm4-10zm2 9zm11-5zm7 0zm2-5zm5 2zm4 9zm16-9zm3 5zm5 0zm2-4zm0 7zm1-1zm3-4zm2-3zm2 6zm8-7zm3 9zm0-8zm3 1zm14 0zm12-3zm16 1zm11-1zm7 5zm6 3zm6-7zm0 10zm2-4zm11-2zm3-3zm5 9zm3-3zm10-7zm5 3zm7-3zm1 8zm1-3zm4-5zm11 0zm4 4zm4 5zm16 9zm-19-5zm-1 3zm-2-3zm-2 6zm-17 1zm-1 1zm-1-2zm-1 2zm-1-9zm-8 6zm-5 1zm-11 1zm-3 0zm-2-2zm-1 4zm-1-1zm-9-5zm0-4zm-4 2zm-18 3zm-1-5zm-8 5zm-5-5zm-5 0zm-2 2zm0 0zm-2 6zm-3-1zm-6-4zm-1 2zm-8 2zm-2-4zm-1-4zm-4 1zm-1 4zm-20 4zm-5-1zm-6-6zm0 4zm-4 4zm-4-8zm-3-2zm-2 11zm-5 0zm-4-5zm-3 3zm-4-2zm0 2zm-10 2zm-3-9zm-7 5zm0-6zm-3 5zm-4-6zm-3 0zm-7 5zm-4-3zm-8 2zm-2-3zm-8 2zm-5 6zm-3-8zm-40 0zm0 10zm-4-7zm-12-4zm-1 10zm-4 1zm-4-1zm0-2zm-7-7zm0 6zm-11-3zm-3 7zm-3 0zm-5 0zm-1-7zm-4 1zm-3-5zm-6 9zm-10-1zm-2-2zm-9 5zm-4-10zm-12 2zm-2 4zm-1 0zm-11-2zm-6-4zm-1 2zm-2-3zm-3 2zm-6 6zm-6-3zm-3 3zm-6-5zm-2 6zm-12-9zm-1 8zm-10 0zm-5-8zm9 16zm8-3zm1 10zm13-7zm7 4zm5-7zm13 5zm0-6zm6 8zm11-3zm1 5zm3-3zm4-6zm1 4zm1-5zm8 7zm0 2zm1-7zm0 7zm2 0zm11-2zm17-7zm7 6zm1 5zm18-4zm3-6zm1 7zm16 0zm4 3zm19-9zm9-1zm6 7zm1 3zm4-8zm0-1zm2 0zm2 0zm7 2zm8-3zm11 1zm9 8zm6-3zm6-3zm5-3zm23 7zm2-1zm7 0zm0-3zm14-2zm4 2zm5-3zm1 7zm6-4zm2-3zm2 0zm8 0zm3 1zm8 0zm8 8zm9-6zm12-2zm8 1zm4 7zm3-8zm10 0zm13-1zm0-1zm15 6zm1 3zm2-8zm6 9zm4 0zm1-1zm0-5zm9-4zm6 1zm0 8zm5-9zm3 3zm3-1zm7-2zm15 9zm2-6zm7 0zm1 5zm5-1zm9 15zm-7-8zm-14 4zm-29 1zm-2 0zm-3 0zm-4-2zm-3-2zm-7 1zm-4-4zm-2 11zm-1-4zm-9-5zm-19 5zm-11-4zm-5 0zm-3 5zm-8-7zm0 9zm-1-7zm0 2zm-6 0zm-14 0zm-1 0zm-14 5zm-36-1zm-2-9zm-11 2zm-3 7zm-7-6zm-14-2zm-6 8zm-1 2zm-1-2zm-2 0zm-1 2zm-1-2zm-2-2zm-4-3zm-4 6zm-12-3zm-5-2zm-3 0zm-15-2zm-1 7zm-3-3zm-4-7zm-3 0zm-11 0zm-5 7zm-9-6zm-6 9zm-7-2zm-1-1zm-12-2zm-4-1zm-3 0zm-4 1zm-20 5zm-3-3zm-5-2zm-1 1zm-8-4zm-5-2zm-6 0zm-8 3zm-9 4zm-7 3zm-5-2zm-6-7zm-3 4zm-15 2zm-7 4zm-18-7zm10 10zm19-1zm5 1zm36 1zm1-3zm7 1zm17 7zm4-5zm15 5zm3-7zm5 2zm1 2zm7-4zm6 3zm18 7zm8-8zm17 7zm10-3zm1 3zm6-7zm2-1zm6-2zm3 9zm0-5zm2 6zm3-10zm5 8zm0 3zm6-3zm6-8zm4 9zm1-8zm2 6zm5 0zm17 2zm8-2zm4 0zm0-3zm1 7zm3-6zm1 3zm1 1zm11-6zm12 1zm17-2zm6 3zm4 1zm7-3zm12-1zm1-2zm2 0zm1 10zm4-3zm12-1zm12 4zm10-1zm16-4zm5 2zm0 4zm7-8zm7 6zm2-6zm3 2zm9 6zm3-9zm21 9zm14-5zm1-3zm5 1zm0-2zm5 9zm3-9zm1 8zm2-10zm9 8zm1-7zm4 9zm-10 11zm-13-6zm-12 5zm-2-5zm-14-1zm-4-2zm-3 11zm-3 0zm-15-1zm0-1zm-2-1zm-1-2zm-13 1zm-5 0zm-2-7zm0 1zm-1 5zm-1-4zm0 4zm-13-5zm-1 0zm-4 7zm-4-3zm-8 5zm-6-9zm0 7zm-6-4zm-3 4zm-7-6zm-1-2zm-4 6zm-9 2zm-4-6zm-1 6zm-2-6zm-12 2zm-24 4zm-10-1zm-1-6zm0 8zm-11 2zm-16-10zm-2 1zm-1 1zm-4 1zm-3 6zm-2-2zm-3-4zm-4-1zm-5 5zm0 2zm-4-7zm-2 5zm-3-5zm0 0zm-7 1zm-8-4zm-6 10zm-4-7zm-3 5zm-5-1zm-12-7zm-8 4zm-6 1zm-4 1zm-12 0zm-4-2zm-1-2zm-1 0zm-3 0zm-1 3zm-1 4zm-3-2zm-1-3zm-24 6zm-6-4zm0 5zm-1-1zm-4-1zm-7 1zm-3-10zm-3 1zm12 13zm15 7zm8-6zm9 3zm0 5zm2-1zm7 0zm6-6zm6-3zm9 3zm12 5zm0 0zm12-1zm1-7zm11 5zm7-5zm3 3zm6 6zm25-10zm3 4zm10-2zm8 9zm4-8zm11 3zm6 2zm2 3zm6-10zm0 7zm3-5zm11-3zm2 1zm0 10zm1-8zm6 3zm12 2zm28-7zm3 5zm12 1zm3 2zm3-7zm7-2zm4 11zm0-3zm19-3zm2-1zm2-1zm2-3zm0 6zm16-1zm1-4zm7 8zm14-8zm4 2zm7 0zm3-3zm8 2zm6 3zm5-1zm6-1zm5 0zm2 0zm0 7zm6-10zm1 0zm1 5zm5 3zm8-6zm-15 21zm0-10zm-10 8zm0-5zm-8 7zm-8-6zm-10-4zm-1 4zm-1-4zm-9 7zm-12 1zm-3-6zm-5 7zm-1-6zm-2 4zm-6-2zm-5-1zm-1-5zm-4 4zm-5 3zm-4-1zm-5-1zm-9 4zm-3-2zm-1-2zm-2 2zm-4 1zm-6 3zm-22-9zm-5 1zm0 0zm-4 4zm-1-2zm-5 1zm-1 4zm-10-4zm-8-6zm-1 2zm-1 9zm0-3zm-3-5zm-1 0zm-1-2zm-12 2zm-30 4zm-6 0zm-4 3zm-7-7zm-10 0zm-15-2zm-4-1zm-3 5zm-5-3zm-4-2zm-1 7zm-4 4zm-7-11zm-2 3zm-5 0zm-9 0zm-1 1zm0 7zm-2-10zm0 7zm-10-7zm-15 7zm-2 0zm-3-4zm-17 5zm-4-1zm-2-8zm-2 11zm-16-3zm-4-4zm-1 7zm-1-5zm6 8zm10 6zm1-2zm6-1zm2 4zm17 0zm5-4zm9 3zm1-3zm6-2zm2-2zm4 2zm15-1zm12-2zm4 5zm0-4zm1-1zm9 6zm1 0zm4-3zm1 5zm13-5zm1 2zm5 5zm0-10zm4 3zm0-2zm2 1zm3-2zm5 8zm3-3zm13 0zm3 3zm13-5zm14 8zm17-8zm7 5zm1-8zm5 9zm27 1zm5-7zm8 5zm0-6zm8 2zm2-1zm7-3zm1 11zm6-10zm2 2zm4 3zm3 3zm1-4zm1 1zm1 5zm9-7zm5 4zm1 2zm4-8zm1 1zm5-1zm4 7zm8-8zm20 9zm10-9zm10 10zm3-1zm0-8zm2 6zm4-2zm1-5zm11 10zm2-7zm3 17zm-6-4zm-3 1zm-1 0zm-8-1zm-7 2zm-6-1zm-2 1zm-15 1zm-12-3zm-11 1zm-16 1zm0 4zm-8-4zm-3-1zm-4-3zm-3 0zm-2 4zm-5 3zm-2-4zm-3-1zm-5-4zm-23 8zm-6-5zm-2 6zm-9-1zm-3 0zm-3-8zm-7 0zm-9 2zm-2-2zm-3 8zm-2-3zm-4-2zm-9-4zm-12 3zm-11-2zm-2 10zm-3-4zm-1 4zm-10-7zm-7-2zm-2 8zm-6-5zm-2-5zm-5 8zm-3-6zm-1 0zm-6-2zm-13 5zm-13 4zm-35-7zm-3 5zm-3-1zm-10-6zm-14 3zm-12 2zm-4 4zm-4-7zm-6 1zm118 11zm5 0zm5 6zm4-1zm25-1zm4 0zm8 2zm4 1zm8-5zm5-3zm4 9zm4 0zm4-6zm4 5zm1-4zm3-5zm2 10zm7-9zm8 8zm28-7zm0-2zm1 9zm0 1zm2-3zm13-1zm0-6zm7 11zm9-4zm2 3zm10-7zm8-2zm30 3zm2 4zm10 2zm1-10zm4 8zm9-3zm8 3zm1-4zm0 4zm7-4zm11 6zm5-3zm-9 9zm-2 5zm-7-4zm-17-5zm-8 11zm-7-4zm-11-6zm-7 3zm-1 0zm-6 3zm-1-5zm-8-2zm-3 7zm-3 2zm-2-2zm-11-6zm-13 9zm-4-2zm-6-6zm-5 4zm-6-4zm-6 3zm-10-2zm-9 4zm-8 2zm-1 1zm-6-10zm-23 2zm-4 1zm-1 4zm-2-5zm-3 1zm-4 2zm-8-2zm-1 3zm-12 10zm12-1zm11 2zm10-5zm4 9zm13-6zm0 5zm4-5zm1 6zm21-8zm3 10zm10-7zm18 3zm5-7zm18 8zm5 0zm4-4zm4 7zm13-6zm0 4zm4-6zm3 7zm8 1zm1-4zm2-2zm6-4zm3 7zm2-6zm14 0zm14 17zm-15-2zm-5 1zm-4-1zm-11 5zm-5-8zm-3 2zm-4 7zm-8-9zm-7 7zm-26 1zm-2-4zm-1-6zm-22 6zm-9 2zm-1-4zm0 1zm-1 6zm-4-6zm-40-4zm0 1zm33 14zm1-3zm7 0zm3 0zm6 3zm1-1zm8-3zm2 0zm4 10zm13-5zm14 6zm7-8zm0-1zm1-2zm6 7zm3-1zm17 5zm2-7zm10-2zm4 9zm9-6zm4 0zm0 14zm-14-2zm-1-3zm-7-2zm-15 0zm-2 4zm-1-1zm-19 8zm-4-5zm-2-3zm-1 2zm-15-5zm-4 11zm-8 0zm-3 0zm-1-3zm-1-3zm0-5zm-18 2zm-4 7zm15 3zm1 0zm15 9zm11-1zm3 2zm0-1zm5 1zm17-6zm2-3zm9 6zm3-6zm4 9zm18-5zm-15 7zm-2 4zm-34-2z"/>
<path id="h0_3" d="M698 2228zm-38 3zm-6-4zm-6 1zm-13-8zm-27 20zm2 1zm9-1zm11-1zm2-3zm0 3zm6-4zm0 4zm11 3zm6-7zm6 6zm3 0zm1-8zm16 1zm8 3zm5 5zm3-10zm2 8zm12 11zm-13-3zm-3 5zm-9-4zm-4-2zm0 1zm-4-4zm-7 1zm-4 1zm-6 7zm-11-8zm-3 10zm-2 0zm0-4zm-1 2zm-9-1zm-2-8zm-15 7zm-16-4zm-12 2zm-25 14zm2 4zm5-2zm9 1zm9-2zm9-6zm2 7zm18 0zm7-1zm2-1zm4 3zm6-8zm0 4zm8-6zm0 9zm9-6zm9 5zm6-4zm10 6zm9-1zm0-5zm9-2zm2 3zm0-5zm8 4zm14 11zm-9 8zm-14-7zm-1-4zm-3 11zm-2-7zm-2 4zm-7 1zm-1-5zm-1-2zm-23 4zm-2-1zm-3 3zm-13-2zm-1 3zm-1-3zm-7-3zm-1 0zm-3 4zm-26-4zm-5 5zm-1-4zm-7 0zm-13 6zm-10-4zm0-2zm-16 17zm4 1zm5-1zm1-4zm4-2zm7 5zm0-4zm7 6zm4-4zm44-3zm9 2zm4-1zm0 3zm1-4zm1 2zm11-1zm16 1zm2 3zm5-1zm3 3zm3-7zm16 5zm10-4zm10-3zm1 10zm4-2zm3-9zm20 21zm-23-6zm-8-1zm0 2zm-25 5zm-8-1zm-4 1zm-3-4zm-8 3zm0-4zm-7 2zm-2 3zm-25-8zm-10 10zm-7-11zm-4 10zm-12-4zm-6-6zm-3 11zm-17-8zm-5 6zm-10-4zm-4 4zm-4-6zm-5 6zm-6-4zm-9 0zm-37 16zm3 2zm6-5zm14 1zm12-4zm1 8zm11-5zm22 2zm0 3zm1-5zm2 3zm9-3zm12-6zm4 7zm9-6zm6 10zm2-5zm3 1zm2-4zm1 6zm3-8zm2 5zm2-5zm1 3zm1-2zm10 2zm3 4zm9-6zm19 2zm2 1zm1 2zm3-3zm7-1zm12 2zm8-5zm7 1zm4 4zm7 2zm2-6zm5 1zm8 7zm4-6zm1 7zm14-10zm4 6zm3 4zm-2 10zm-6-3zm0-3zm-20-1zm-9 6zm-9 4zm-5-11zm-16 1zm-5 0zm-6 3zm-13-4zm-5 4zm-6-2zm-4 2zm-9 6zm-2-10zm-5 2zm-7 7zm-6-6zm-2 2zm-13 3zm-3-1zm-19-4zm-8 3zm-3 3zm-8-7zm-9 9zm-1-1zm-7-9zm-20 9zm-2-2zm-1-2zm0 4zm-10-2zm-3-7zm-11 7zm-5-6zm-4 4zm-3 4zm-15-3zm1 16zm16-10zm3 1zm47 8zm3-6zm4-4zm12 4zm32 6zm8-3zm1-4zm12 8zm1-11zm6 8zm2-4zm7-1zm2 6zm31 2zm23-6zm1-1zm9 6zm8-4zm0 3zm3-8zm9 0zm8-1zm5 9zm1 0zm5-5zm9-2zm10 5zm2-5zm-7 10zm-27 5zm-7-1zm-6-2zm0 4zm-12-4zm-2 4zm-8-6zm-7 1zm-2 4zm-8 2zm-30-4zm-11-1zm-1 2zm-1 5zm0-1zm0-8zm-12 2zm-2 7zm-1-4zm-1 5zm-11-8zm-2 0zm-5 4zm-10-1zm-4-2zm-17 6zm-3-4zm-6 6zm-1-2zm-11-3zm-14 1zm-11 3zm0-4zm-3 1zm-10-4zm-5 0zm-6 7zm0-7zm-8-1zm-7 8zm-12-10zm-8 0zm-19 2zm-7 0zm-3 3zm-20 14zm2 0zm0 2zm3 0zm6-8zm4 5zm2 0zm4 5zm7-5zm2-5zm0 1zm1 1zm4 8zm5-11zm12 11zm3-4zm5 4zm18-4zm0 1zm5 3zm6-8zm22 0zm2 7zm0-3zm2-7zm4 10zm12-4zm0 4zm1-5zm1 1zm5 2zm18-2zm18-6zm5 2zm7 1zm1 0zm2 1zm3 6zm1-6zm3 6zm11-9zm25 5zm3 4zm26-3zm7 2zm4-3zm3 5zm17-11zm23 3zm3 6zm25 2zm1 0zm5 11zm-4-10zm-11 5zm-4-4zm-1 6zm-3-7zm-19 2zm-1 7zm-28 0zm-2-8zm-6-1zm-2 10zm-19-9zm-8 6zm-8-3zm-7 3zm-12 1zm-1-2zm-3-6zm-4 10zm-6-2zm-23-2zm0-6zm-3 2zm-13 8zm-1-1zm-2-3zm-9-3zm-1 1zm-19 3zm-4 3zm-2-2zm-6-2zm-1 4zm-6-9zm-8 3zm-15 5zm-3 1zm0-3zm0 3zm-8-4zm-7-1zm-9-4zm-12 8zm-4-5zm-2 2zm-1-3zm-10 7zm-4 1zm-2-5zm-1 4zm-3-6zm-9 1zm-2-1zm-5 1zm-9 2zm-49 10zm32 3zm16 0zm4-2zm4 5zm2-5zm10 5zm11-10zm3 3zm2 6zm22-6zm20-3zm15 2zm9 7zm5-8zm1 0zm7 9zm1-10zm13 5zm15 1zm16 4zm1-4zm8-7zm5 3zm4 4zm3 0zm6-2zm5 6zm1-10zm5 8zm3-6zm7 8zm6-8zm5 4zm10 0zm6 3zm3-5zm7 3zm19 0zm0-4zm2 2zm9 0zm0-4zm22 8zm3-3zm6-7zm13 2zm3 3zm4 2zm3 2zm2-9zm6 9zm1-6zm2 1zm4 7zm20 5zm-2 3zm-5-5zm0 0zm-1-1zm0 6zm-3-2zm0-5zm-6 5zm-4 2zm-18 1zm-8 2zm-2-10zm-11 2zm-10 6zm-14-4zm-13-4zm-4 4zm-26 6zm-10-2zm-8 1zm-2-5zm-7 6zm-6-10zm-13 11zm-9-2zm-8-4zm-4 2zm-15 3zm-17-5zm-5-3zm-3-1zm-20 3zm-7 2zm-13-3zm-5 3zm0 5zm-1-8zm-1 7zm0-5zm-9 1zm-2-2zm-6 7zm-1-10zm-2 5zm-4 1zm-4 4zm-3-9zm-4 0zm-12-1zm0-1zm-1 5zm-20-3zm-3-2zm-39 22zm9 0zm23 1zm6-2zm3-9zm1 11zm0-7zm5-2zm4 3zm2 6zm1 0zm0-1zm1-1zm31-2zm12-3zm5 4zm3 2zm5-10zm8 9zm8-3zm15 4zm14-1zm5 2zm6-9zm2 4zm3-4zm23 9zm5-8zm11 7zm16-3zm1 0zm3-5zm35 1zm5 3zm7 5zm7-1zm7-8zm8 7zm1-6zm27 5zm5-7zm0 6zm1-4zm4 5zm8-3zm1-1zm14 0zm5-3zm2 6zm7 2zm1-9zm8 6zm7-2zm6-3zm16 9zm5 8zm-7 0zm-8 5zm-4-6zm-1-1zm-7-4zm-7 9zm-3-5zm-1-4zm-2 5zm-8-4zm-4 5zm-3 3zm-7-6zm-15 2zm-5 4zm-2 0zm-6-9zm-1 6zm-1 5zm-1-5zm-1 0zm0-6zm-9 2zm-3 1zm-6 0zm-8 0zm-10 6zm-2-8zm-4 10zm-7-11zm-5 3zm-1-1zm-12 5zm-2-2zm-2-2zm-1 0zm-4 8zm-1-6zm-1-4zm-11-1zm-4 9zm-4 1zm-14-6zm-9-2zm-1-2zm-11 0zm-1 3zm-1-2zm-14 9zm-24-1zm-9-3zm-12 5zm-1-5zm-1-5zm-1 1zm-13-1zm-2 10zm-2-1zm-24-7zm-3 4zm-5 3zm-1 0zm-12-9zm-9 3zm-4-3zm-17 8zm0-3zm-9 0zm0-6zm-6 4zm-7 3zm-12-4zm-3-1zm-9 8zm17 9zm0 3zm3-1zm1-9zm0 9zm7-4zm13-5zm8 10zm7-7zm9 8zm7-6zm5 1zm10-3zm3 7zm5 0zm3-7zm0-2zm15 3zm1 7zm2-8zm10 2zm5-2zm6-1zm1-2zm7 6zm4 3zm13-7zm5 6zm3-7zm1 3zm11 4zm25 2zm3-1zm1-3zm6-2zm0 1zm4 4zm5-5zm1 7zm2-10zm20 3zm4 5zm9 0zm1-1zm11-3zm12 6zm8-9zm2-2zm14 9zm0-3zm2-4zm12-2zm14 7zm7 3zm3 1zm15-3zm0 1zm1-2zm13 4zm12-7zm21 7zm2-10zm21 1zm22 20zm0-5zm-2 3zm-8-4zm-3-1zm0 3zm-7-2zm-9-3zm-7 4zm-3 1zm-14-1zm-8 0zm-11-3zm-3 7zm-17-9zm-9 3zm-5 5zm-9-7zm0 0zm-5 2zm-7 4zm-3-5zm-4-1zm-9 3zm-13 1zm-6-3zm-6 4zm-4 4zm-12-7zm-16 8zm-5-6zm-2 3zm-6-1zm-2 1zm-2-2zm-8 3zm-1-4zm-2-2zm-2-3zm-8 8zm-13-6zm-1 3zm-2 4zm-37-5zm-6 4zm-6-3zm-2-5zm-11 11zm-4-4zm-23 2zm-18-1zm-4-1zm-2 2zm-9-6zm-5 0zm-15 5zm-4 3zm-16-9zm-4 6zm-2 0zm0-8zm-2 4zm-9 2zm-6-4zm-2 5zm-18-1zm16 10zm2-4zm1 11zm9-8zm7 7zm12-2zm0-6zm3 2zm35-4zm3 11zm18-4zm0 4zm2-2zm5-5zm10 6zm4-5zm3 1zm3-3zm4 3zm4 0zm2-2zm10-2zm0-1zm6 8zm1 2zm7-5zm13-4zm9 2zm5-3zm24 9zm12-5zm5-1zm3 6zm4-10zm23 4zm0 0zm2 6zm6-9zm1 1zm40 8zm13 1zm25-4zm3 3zm7 0zm10-7zm14 6zm2 0zm6-5zm5 1zm17 2zm0-3zm1-1zm3 2zm3 2zm1-2zm4-5zm5 6zm0-1zm11-3zm25 9zm9-11zm14 16zm-3 6zm-7 0zm-26 0zm-3-8zm-17-2zm-9 9zm-1 2zm-11-2zm-1 0zm-8 2zm-9-8zm-11 5zm-8-6zm-12 6zm-15-4zm-2-2zm-7 3zm0 3zm-9 1zm-5 1zm0 0zm-12-6zm-2 0zm-3 3zm-19 2zm-14-9zm-6 3zm-3 3zm-2 4zm-2-2zm-6 1zm-32 2zm0-9zm-8 5zm-3 2zm-2-2zm-8-5zm-14-2zm-10 7zm-5-6zm-24 1zm-4 7zm0-7zm-3 7zm-11-7zm-5-2zm0 5zm-4 5zm-4-7zm-1 1zm-2 6zm-23 1zm-7-1zm-1-3zm0-1zm-3-1zm-16 4zm-2-3zm-13-2zm-7 1zm-15 1zm0-6zm-25 11zm-4-4zm-1 2zm-2 12zm2-8zm11 2zm37-2zm7 1zm25 7zm1-6zm9 5zm9-7zm1 4zm1 5zm6-5zm17-1zm1-4zm2 2zm18 6zm9-6zm1-2zm5 3zm25 8zm1-9zm2 5zm5-4zm12 6zm3-8zm1 2zm6 5zm5-5zm2 5zm10 3zm1-1zm18-1zm8-9zm3 9zm4 1zm5-10zm1 8zm10-5zm1 7zm37 0zm1 1zm9-8zm0-3zm0 8zm13-2zm1-5zm4 4zm5 6zm5-3zm1-4zm6 0zm21 5zm25-6zm3 0zm16 1zm15 5zm6-6zm8-1zm9 1zm10 3zm2 2zm2-7zm8 5zm2-5zm18 22zm-7-6zm-13 2zm-2-2zm-10 6zm-1 0zm-2-2zm-9-9zm-3 4zm0 1zm-6 2zm-13 1zm-7 1zm0-6zm-6 8zm-13-8zm0-3zm-4 6zm-3-5zm-4 7zm-3-4zm-2 2zm-6-3zm-1 8zm0-3zm-2-5zm0 0zm-4 8zm-1-4zm-19-5zm-5 4zm-4 1zm-8 1zm-8 2zm-2-1zm-16-9zm-4 6zm-2 1zm-7 3zm-2-9zm-4 6zm-1-5zm0 1zm-5 3zm-6 4zm-3-10zm-7 1zm-10 6zm-15 0zm-6 3zm-17 0zm-4 0zm-6-7zm-4 2zm-17 1zm-12-4zm-2 9zm-2 0zm-7 0zm0-9zm-1-1zm-15 6zm-8-7zm-8 4zm-3 0zm-2-3zm-8 10zm-27-3zm-2-8zm-10 9zm-6-8zm-2 0zm-8 1zm-5 8zm0 1zm-22-3zm-1-1zm-1-1zm-30 1zm-4-4zm-2 3zm-3-1zm-3 4zm-6 0zm-3-4zm7 14zm5 0zm1 2zm3-2zm4-5zm5 8zm18-3zm7 1zm18-1zm1 0zm5-6zm1 1zm0 3zm10 4zm1-5zm1-4zm1 10zm9-4zm18-2zm26 1zm6 4zm0-5zm3 4zm9-1zm1-7zm3 11zm0-9zm5 8zm7-6zm8-1zm3 1zm3 0zm2 0zm1-4zm3 8zm1-2zm7-6zm14 2zm1 8zm9-7zm6 4zm5-3zm8-4zm16 11zm5-6zm5-3zm3 7zm8-6zm5-2zm9 5zm0-2zm0-4zm11 0zm9 6zm7 3zm7-6zm2 3zm18-5zm5 8zm8-3zm1-1zm16 0zm2-2zm26 7zm3-3zm11-6zm4 1zm0 7zm6-1zm4-4zm26 0zm6-2zm3 2zm7 2zm34 4zm6 0zm-1 9zm-6-4zm-4-1zm0 6zm-1 3zm-3-4zm-8 3zm-1-6zm-5 2zm-12 2zm-5 3zm-3-9zm-7 8zm-14-4zm-4 5zm-30-7zm0-3zm-11 1zm-2 3zm0 5zm-1-3zm-2 4zm0-5zm-2 4zm0-6zm-6 3zm-1 2zm-32-9zm-14 7zm-9-3zm-5 0zm-8 5zm-4-6zm0-2zm-10 10zm-5-2zm0-2zm-5-2zm-2 0zm-16 3zm-2-1zm-5 4zm-5-3zm-5-2zm-15 3zm-14-3zm-4-5zm-2 2zm0 4zm-6-4zm-3 6zm-1 0zm-18-4zm-9 2zm-1 1zm-19-2zm-1-1zm-11-5zm-9 11zm-2-5zm-2 2zm-4 0zm-9-3zm-13-5zm0 9zm-9-2zm-8 2zm-2 0zm-4 0zm-3 2zm-4-6zm-8 4zm-20-2zm-11-5zm-6 4zm-7 0zm0-2zm-3-2zm-3 0zm8 14zm46 3zm5-2zm13 1zm7 4zm6-1zm12-4zm13-2zm5 8zm21-7zm13 3zm1-1zm3-3zm4 5zm2 2zm5-10zm8 10zm10-6zm1 6zm7-5zm9 3zm1-2zm2 0zm8-2zm4 0zm1 4zm20-4zm6 5zm2-6zm1 8zm10-6zm11-3zm9-2zm11 10zm9-1zm6-5zm18-2zm2 9zm1-11zm7 4zm15 0zm6 1zm2 0zm2-1zm25 0zm2 7zm4 0zm6-5zm3 4zm5-7zm1 2zm13 1zm15-2zm2 4zm34-4zm29 2zm7 11zm-23 4zm0-5zm-13 4zm-15-1zm-2 4zm-1-4zm0 4zm-4-1zm-7 0zm-6-9zm-7 3zm-19 1zm-14-1zm-19 7zm-9-11zm-1 1zm-2 9zm-18-4zm-14-6zm-9 7zm-6-3zm-12-2zm-11 1zm-13 8zm-5-7zm0-3zm-3 4zm-2-3zm-3 8zm0-1zm0-8zm-6 9zm-11-9zm0 0zm-24 3zm-23 0zm-2-4zm0 4zm-1 4zm-1 1zm-9-9zm-2 5zm-7 3zm0 1zm-1-5zm-7 7zm-4-8zm-5 1zm-5 3zm-20-3zm-2 1zm-3 4zm-22-7zm-7-1zm-2 4zm-5 0zm-1-3zm-12 3zm9 13zm21-1zm0 4zm7-6zm0 8zm4 0zm1-10zm5 4zm19 1zm7 5zm0-8zm2 6zm6 2zm2-9zm0 3zm6 0zm3 6zm3-3zm7 2zm13-4zm0-6zm10 9zm14-9zm12 11zm15-6zm1-4zm16 4zm16 0zm8-2zm21 4zm11 2zm13 1zm48-1zm3-1zm2-4zm0-4zm1 3zm10-2zm4 8zm10-5zm2-1zm0 5zm26-7zm3-1zm2 10zm0-8zm4 0zm6 9zm1-9zm2 4zm8-3zm6 0zm5 2zm3 6zm5-6zm3-2zm0 7zm3-3zm1 4zm6-7zm3 3zm-7 9zm-3 6zm-1 0zm0-10zm-16 9zm-7-5zm-21 1zm-26 2zm-9-4zm-3 3zm-3-3zm-6 4zm-9-4zm-24-2zm-2 9zm-2-9zm-6 5zm-11 1zm-3-5zm-2 9zm-5-7zm-4 0zm-6 7zm-25-8zm-6 6zm-18-2zm-4 0zm-1-2zm-4 2zm-5-4zm-1-1zm-7 7zm-3-1zm-11 1zm-15-1zm-15 0zm-1-2zm-1-5zm-12 4zm-10 5zm-10-3zm-12 0zm-17 0zm-3-3zm-9-2zm-8 8zm-13-2zm-20-3zm-2 2zm13 6zm16 1zm1 1zm1 8zm7-4zm16 1zm3-2zm1 0zm12-2zm1 7zm4-4zm4-7zm4 7zm7 4zm23-10zm6 4zm7-5zm4 0zm4 9zm6-7zm0 2zm1 7zm0-4zm10-5zm5 7zm4 1zm8-8zm7-2zm0 3zm10 3zm6 2zm4-3zm22 0zm8 4zm1-5zm4 0zm27-1zm15 4zm10 4zm2-4zm4-1zm7-4zm0 2zm6 4zm4 2zm0-1zm6-2zm0 1zm3-6zm0 6zm6-3zm5 3zm1-4zm2-2zm4 5zm1 2zm5-7zm4 5zm2 0zm5 3zm0 1zm3-10zm3 7zm0-2zm6 0zm7 0zm11-6zm11 4zm8-4zm13 15zm-10 3zm-19 4zm-7-2zm-26-1zm-2-7zm-1 10zm-20-6zm-7-3zm-8 0zm-3 1zm-8 3zm-24-5zm-4 2zm-6-2zm0 9zm-4-3zm-1 3zm-14-2zm-1 1zm-1-2zm-10 0zm-8 4zm-4-10zm-2 6zm-3-5zm-1 4zm-20 0zm0-4zm-5 10zm-9-4zm-2 3zm-4 0zm-8-6zm-7 2zm-6-3zm-20 1zm-11 0zm-22 1zm-5-2zm-21 2zm-15 4zm-9-7zm-2 7zm-10 0zm-2 5zm63-2zm12 0zm33 3zm5 8zm16-5zm9 5zm5-1zm5-8zm0 9zm7-9zm1 9zm2-1zm10-10zm24 10zm2 1zm3-9zm7 4zm4 4zm2-3zm14-2zm1 5zm32-5zm6-5zm2 11zm13-6zm2-3zm3 5zm2 1zm2-7zm0 7zm1 2zm2-5zm1-5zm12 9zm14 1zm19 0zm11 0zm8-4zm3 0zm1 0zm-1 11zm-9 4zm-1-4zm-14-2zm-17 2zm-4 3zm0-5zm-1-1zm-1 5zm-1-2zm-3 1zm-9 2zm-1-6zm-19 0zm-4 8zm-1-7zm-11 6zm-23-2zm-1-6zm-15-1zm-6 5zm-12-1zm-4 0zm-17 1zm-17-2zm-9 3zm-2 4zm-5 1zm-6-3zm-3-7zm-20 1zm-1 3zm43 15zm13-5zm0-3zm7 4zm13-2zm10 4zm7 1zm4-2zm35-3zm2 8zm1-5zm8 3zm3-4zm4 5zm4-1zm7-4zm0 5zm12-4zm17-5zm4 6zm3 0zm4 2zm4-4zm14 0zm1 3zm3 3zm1-4zm6-4zm-17 13zm-17-1zm-9 3zm-3 3zm-10-8zm-2 3zm-4 2zm-3-4zm-4 1zm-6 8zm-2-9zm-4 9zm-2-2zm-2-8zm-3 2zm-7 4zm-5-3zm-3-2zm-23 6zm-5 3zm-5-5zm0 2zm-5-5zm-2-1zm0 6zm-34-3zm35 12zm6 5zm2 2zm5-11zm21 3zm36 8zm5-11zm7 3zm1-1zm3 9zm1-1zm1-3zm13-1zm1-5zm8-1zm5 0zm4 9zm-1 7zm-1-2zm-12 8zm-6 0zm-3 0zm-1 0zm-30-4zm-1-5zm-6 7zm-1-8zm-26 5zm-2 3zm-7-1zm-1 0zm-2-1zm26 7zm16 3zm0 6zm5-3zm5-4zm3-1zm8 8zm11-7zm5 1zm-20 11zm-18-2zm-1 2z"/>
<path id="h0_4" d="M672 2228zm-1 0zm-43 13zm0 0zm4-2zm8-7zm2 1zm4 5zm6 3zm13-2zm1-6zm1 3zm10 7zm16 0zm1 0zm12 6zm-1 3zm-2-4zm-4 5zm-7 2zm-25-10zm-8 5zm-10-6zm-20 5zm-4 4zm-8-5zm-3 1zm-23 5zm-17 12zm5-4zm7-6zm4 8zm1-3zm3 4zm2-9zm10 3zm3-1zm6 6zm4 3zm7 0zm9-7zm19 0zm1 2zm0-5zm7 8zm4-7zm4 5zm0-2zm12 1zm29-2zm4 7zm8 11zm-65-6zm-4 2zm-3-1zm-2-3zm-6 6zm-3 3zm-24-9zm-12 7zm-11 2zm-17-5zm-45 13zm9 3zm6-10zm8 2zm4-2zm5 7zm2 2zm16-5zm1 1zm18-1zm1 5zm22 0zm5 0zm2-4zm20 0zm9 3zm16-4zm0-1zm4 6zm13 0zm14-8zm1 4zm7-1zm6-4zm25 12zm-9 6zm-5-4zm-1 4zm-7 2zm-4-6zm-7 5zm-31 3zm-14-2zm-2 0zm-16 0zm-8-5zm-5 3zm-2-6zm-4 8zm-5 3zm-4-11zm-13 10zm-11-6zm-27-4zm-11 3zm-44 4zm-20 0zm5 13zm8-2zm2-4zm3-2zm24 9zm0-3zm22-4zm26-1zm13 6zm5-1zm1-4zm10 5zm11 1zm5-8zm34 10zm5-9zm18 8zm7-8zm44 3zm22 17zm-18-6zm-4-1zm-16-1zm-2 1zm-4 4zm-1-5zm-16 10zm-1-8zm-5 8zm-3-4zm-3-3zm-3 5zm-5 0zm-9 0zm-4 1zm-8-5zm-1 2zm0-2zm-3 5zm-30-4zm-2-5zm-3 7zm0-1zm-10 2zm-3-7zm-9 5zm0 1zm-8 3zm-46-6zm-2-3zm-13 6zm-6-6zm-7 3zm-1-4zm-6 1zm-11 4zm-6 5zm-21-3zm13 15zm8-4zm9-7zm3 1zm3 10zm1-10zm3 2zm20-3zm14 4zm26-2zm7-1zm1 8zm10-4zm21 0zm3 6zm13-2zm8 0zm3 1zm4-2zm19 1zm4-2zm22-7zm1 1zm2 2zm15 6zm17-8zm5-1zm8 9zm6-1zm6 5zm-7 0zm0 4zm-15 0zm-4 4zm0 1zm-10-3zm-4-1zm-3 1zm-5 0zm-1 0zm0 3zm-3-5zm-13 4zm-7-3zm-4-4zm-1 5zm-19-6zm-1 1zm-16 5zm-4-4zm-3 1zm-1-1zm-7-2zm-1 9zm-19 1zm-1-5zm0-6zm-18 11zm-5 0zm-12-1zm-18-8zm-12 4zm-14 2zm-4 0zm-4 2zm-30-10zm-8 9zm-8 0zm-7-6zm-1 6zm-5-3zm-3 2zm-5-1zm-12 1zm-44 15zm33-10zm15 7zm18-7zm4 3zm5-4zm2 11zm11-6zm14-1zm11 0zm9 2zm3-4zm11 7zm4-2zm6-5zm9 3zm0 5zm1-6zm3 1zm1 3zm15-7zm11 5zm12-6zm2 0zm4 3zm3-3zm25 10zm5-3zm16-3zm7 4zm1-5zm9-2zm3 10zm1-6zm19-5zm7 1zm34 5zm15-2zm16 15zm-6 4zm-15-9zm-3 1zm-4 1zm-2 3zm-8-3zm-8 2zm-2-4zm-1-1zm-47 10zm-4-7zm-6 4zm-9 3zm-14-4zm0 2zm-2 1zm-9-8zm-4 1zm-4 1zm-2-3zm-3 8zm-7 0zm-15 2zm-1-7zm-7-2zm-11 8zm-11-6zm-15 3zm-1 3zm-7-6zm-12 7zm-30-9zm-6 6zm-5 3zm-7-3zm-11 0zm-4 3zm-5-10zm-1 9zm-7-10zm-2 9zm-2-5zm-2 4zm-2 3zm-3-5zm-8-4zm-2 7zm-3-1zm-4-8zm-9 7zm-13 4zm-2 12zm10-8zm0 5zm11-3zm5 1zm3 5zm3-6zm17 2zm8 1zm18-2zm6 0zm8 5zm12-8zm6 8zm7-10zm3 10zm7 0zm5-8zm1 2zm3-4zm7 6zm4-6zm9 7zm3 1zm4-7zm5-2zm13 11zm22-5zm11-3zm10 6zm2-1zm21 3zm10-8zm0-2zm0 4zm5 6zm2-11zm1 10zm0 0zm11 1zm19-6zm1-4zm8 0zm4 4zm4-2zm1 7zm3-3zm7-4zm15 0zm7 3zm16-4zm9-1zm5 6zm3-7zm12 20zm-11-4zm-16 1zm-2 4zm-3 1zm-1-9zm-4 10zm-7-11zm-6 10zm-10-3zm-4-6zm-1 4zm-5-3zm-7 0zm-9-2zm-4 6zm-3-1zm-6 3zm-12-5zm-2 0zm-3 5zm-5-2zm-8 4zm-3-10zm-6 2zm-4-1zm-9 9zm-9-10zm-14 5zm-1 0zm-29 1zm-11 3zm-5-7zm-1-2zm0 9zm-6-5zm-7 2zm-1 1zm-9-1zm-14 0zm-12 0zm-13 5zm0-5zm-12-6zm-15 11zm-1-3zm-6-1zm-4 1zm-6-5zm-7-1zm-27 4zm-11-1zm-2 5zm-11-7zm-5 3zm0 4zm-5 13zm19-5zm18 0zm4 4zm5-10zm0 8zm6-8zm1 0zm6 2zm3 4zm28-6zm3 5zm18 1zm6-3zm8 6zm5-4zm9 4zm1-4zm2 2zm5 2zm4-4zm3-1zm4 5zm5-5zm3 1zm3-3zm1 1zm13-1zm5 2zm23 5zm4-8zm2 5zm4 1zm2 1zm22 3zm5-3zm2 1zm2-6zm2 5zm2-3zm7-5zm1 6zm11 5zm9-2zm10-1zm7-8zm9 4zm6-4zm4 4zm2-3zm6 1zm27-1zm5 4zm0 5zm7 1zm2-7zm29 4zm2-2zm6 16zm-2-1zm-3-5zm-4-3zm-18 8zm-8-2zm-5-7zm-2 5zm-12 1zm-10 2zm-7-3zm-10-1zm-33 0zm-1-1zm-2-2zm-9 7zm-4-5zm-8 0zm-3 4zm-4 4zm-17 0zm-6 0zm-20-8zm-20 5zm-9-6zm-1 2zm-6 1zm-15-1zm-10 4zm-3-8zm-3 6zm-3-2zm-11-2zm-6-2zm-4 10zm-17-10zm-15 0zm-11 11zm-3-10zm-10 2zm-3 8zm-1-7zm-2-1zm-11 8zm-16-10zm-1 0zm-15-1zm-31 10zm-2-2zm-5 15zm4-11zm4 0zm3 4zm8-3zm10 7zm3 3zm2-3zm37-2zm3 3zm4-9zm4 5zm17 2zm16-4zm7 7zm1-10zm14 3zm12-3zm6 3zm15-3zm5 5zm0 6zm21-9zm3 9zm7-3zm20-1zm1-5zm9-2zm28 3zm2 3zm17 2zm5-4zm1-3zm2-1zm15 1zm0 0zm11 3zm4 2zm21 4zm11-2zm7-3zm2 0zm15 2zm1 2zm0-9zm16 10zm7 1zm4-5zm0-3zm2 1zm1 5zm9-6zm0 1zm2 1zm9 3zm26 3zm-1 11zm-5-1zm-8-6zm-9-2zm-3 8zm-3 2zm-12 0zm-27-2zm-19-9zm-6 8zm-3 0zm-24 3zm-16-4zm-10 3zm-2-5zm-24-5zm-6 4zm-5 6zm-4-2zm-29-7zm-7 3zm-30 6zm0-2zm-2 3zm-2-1zm-3-2zm-15-6zm0 8zm-3-5zm-2-2zm-14-3zm-2 9zm-13-5zm-24 2zm-8-6zm-9 6zm-2 2zm-3-1zm-9-1zm-9 2zm-4-7zm-3 2zm-1-3zm-24 7zm-5-3zm-1 3zm-1-2zm-3 3zm-2-7zm-6 4zm-14-1zm-15 1zm8 12zm10 2zm4 1zm4 0zm40-4zm10 5zm2-5zm7 1zm3 1zm5 2zm9-5zm2 0zm13 2zm8 1zm7-6zm4 9zm16-7zm3 4zm4 0zm4 5zm0-4zm15 2zm4-9zm4 10zm19 0zm26-7zm6-3zm11 4zm0 0zm7 4zm12-4zm0 7zm7-9zm8 0zm1 1zm3 3zm1 3zm23 2zm3-7zm21-1zm11 6zm2-3zm0 4zm1-5zm4 4zm18-4zm4 6zm8-1zm0-8zm19 1zm4 5zm4 1zm18-3zm0-4zm1 4zm5 1zm8-4zm4 3zm14-6zm6 5zm2 5zm12-1zm6 10zm-5-2zm-11-5zm-3 11zm-17-1zm-1-6zm-3 2zm-3 5zm-1-5zm-5-1zm-28 6zm0-6zm-11-4zm-27-1zm-5 10zm-6-7zm-8 3zm-27 1zm-4 2zm-13 1zm-17-7zm-6 8zm-22-10zm-5 6zm-9-5zm-9 5zm0 3zm-18-4zm-11-5zm-1 7zm-3 0zm-7-6zm-6 4zm-1 1zm-6 0zm-2 3zm-4-10zm-2 9zm-8 2zm-22-8zm-6-1zm0 7zm-1-6zm-8 6zm-9 1zm-21-6zm-29-1zm-2 2zm-16 1zm-7-5zm-9 7zm-5-1zm0-3zm-1 3zm-3-3zm-5 5zm-3-3zm-5 5zm0-7zm-18 4zm-5-7zm11 13zm13 1zm3-2zm4 9zm3-8zm8 1zm6 8zm17 0zm22-2zm2-2zm8-1zm1 4zm4-1zm24-4zm10-2zm6 1zm4 5zm3 2zm7 0zm2-3zm3-4zm0 4zm9-6zm3 4zm9 4zm0-9zm13 3zm19 4zm4-1zm2-3zm28 7zm25 0zm24-2zm13-4zm6-5zm1 8zm53-8zm16 2zm8 4zm11-2zm11 7zm13-2zm1 0zm8-5zm5 4zm5-3zm2-3zm21 2zm5 6zm7-3zm1-2zm5-2zm25 5zm0 11zm-10-2zm-2 2zm-29-5zm-1 9zm-9-7zm-13-1zm0 1zm-16-1zm-7 3zm-4-5zm-1 2zm-3-3zm-12 5zm-4 1zm-6-3zm-11-2zm-2 1zm0 4zm-41-4zm-18 9zm-6-8zm-1-1zm-6 6zm-31-6zm-8 0zm-14 7zm-17-2zm-10 2zm-6-2zm-8-2zm-13 0zm-1 0zm-5 4zm-2-2zm-14-6zm-23 4zm-7 1zm-5-1zm-15-3zm-10 0zm-11 1zm-8 7zm-4-5zm-2 5zm-3-6zm-10 6zm-5-1zm-4-3zm-6 5zm-22-11zm-6 4zm-23 4zm4 5zm1 8zm6 0zm6-5zm0-4zm2 11zm24-7zm13-1zm1-3zm10 10zm4-3zm3-4zm10 2zm13 0zm7 1zm4 4zm3 0zm7-2zm3-6zm18 0zm15 5zm14 3zm35-1zm15 2zm15-5zm2 3zm4 1zm9-3zm5-6zm10 3zm0 0zm12 0zm8-1zm7 4zm6-3zm21-2zm16 0zm10 5zm2 0zm10-2zm15-5zm1 7zm8-7zm14 6zm2-2zm3-3zm10 9zm7-7zm4 4zm3-2zm14 2zm3-3zm4-1zm6 8zm0-9zm3 7zm3-6zm12-3zm22 4zm3-2zm1 6zm16 3zm8 9zm-39-4zm-12 7zm-2-7zm-1-2zm-9 4zm-18 1zm-9-2zm-2 4zm-2 2zm-2-6zm-5 0zm-1-3zm-8 8zm-9-8zm-5 6zm0-3zm-12-1zm-35 3zm-2-5zm-11 8zm-2-2zm-1-6zm-10 0zm-4 3zm-38 1zm-1-3zm-1 7zm-13-1zm-10-6zm-8 5zm-8-6zm-4-2zm-2 8zm-31-8zm-5 8zm-7 2zm-5 0zm-16 1zm-2-7zm-1 6zm-6-4zm-8 1zm0 2zm-12-8zm-8 4zm-31-4zm-13-1zm-10 5zm0 6zm-13-10zm-14 2zm-13 5zm-11-3zm-15-3zm-5-2zm22 14zm44 5zm24-7zm5 3zm5 2zm1-3zm44 2zm4 6zm15-9zm7 7zm2-2zm9-2zm4-1zm20 8zm6-2zm12-5zm13-3zm3 3zm4 4zm48-5zm39-2zm37 8zm8-3zm1 0zm4 4zm16-9zm0 6zm3-7zm1 4zm9-3zm3 7zm7 0zm6 3zm1-2zm2 1zm0-4zm3 1zm4-2zm10 0zm7-3zm1 5zm6-5zm4 5zm6-6zm6 10zm3-2zm3-2zm7-1zm10-1zm0 4zm2-3zm1-1zm18 16zm-9-2zm-14-3zm-9-4zm-5 1zm-10 9zm-34-4zm-4 3zm-11-3zm-3 1zm-24 1zm-4 1zm0-5zm-2 0zm-2 4zm0-4zm0-4zm-6 6zm-20-1zm-24-5zm0 3zm-32 5zm-1-8zm-2 1zm-1 7zm-3-8zm-5 8zm-4 3zm-1-1zm-4-8zm-12 7zm-22 2zm-2-11zm-5 10zm-8-4zm-18-3zm-7 7zm-4-1zm-6-8zm-4 10zm-12-1zm-15-9zm-19 8zm-6-5zm-16 3zm-2-4zm-8 4zm-6 1zm-15-7zm-8 0zm12 15zm0-3zm7-1zm5 7zm1 2zm3-2zm19-1zm17 2zm7-7zm4-1zm2 3zm0 1zm11 6zm9-3zm2 2zm18-1zm24 2zm8-10zm6 6zm8-1zm7-4zm34 2zm1 8zm2-7zm8-3zm0 7zm4-6zm9 5zm9-3zm3-3zm18 3zm4 0zm1 1zm9 6zm2 0zm11-1zm7-5zm4-2zm9 3zm12-1zm15 0zm2-3zm12 6zm12 2zm7-2zm12 0zm2-7zm0 2zm6 6zm7 2zm1-6zm1-2zm2 0zm5-3zm0 1zm7 8zm14-6zm-20 18zm-6 2zm-2-8zm-9 4zm-20-5zm-6 4zm-28-3zm-1 8zm-11-3zm-12-5zm-9 7zm-1-1zm-3-7zm-19 6zm-5-2zm-7 0zm-8-1zm-13-1zm-25 1zm-5 6zm-9-6zm-4 4zm-15-2zm-4 2zm-6-7zm-9-2zm-5 1zm-1 0zm-5 9zm-4-2zm-4-7zm-3 9zm-2 1zm-12-7zm-6 2zm-1 3zm-3 0zm-2 2zm-9-8zm-7 1zm-3 7zm-10-9zm-11-1zm-3 6zm-2 3zm-1-2zm-4-2zm-6-2zm-5 0zm-9-4zm-4 0zm-7 5zm-8-3zm-2-2zm-10 0zm16 18zm10-5zm1 1zm6 1zm10 7zm3-3zm6-2zm3 3zm6-1zm5-4zm19 4zm14-4zm19-2zm5 6zm7 2zm4-5zm2 1zm15-4zm8 4zm5 3zm1 2zm8 0zm6-7zm2 2zm0 1zm1 0zm8-4zm19 2zm14 1zm3-2zm5 7zm1 0zm9-6zm10 3zm5-7zm12 3zm4-1zm21 6zm3-4zm0-2zm14-2zm12 3zm9 8zm11-4zm28-5zm3 2zm1 2zm2 2zm1-5zm1 0zm14 18zm-3-1zm-5-4zm-2-2zm-3 0zm-13 8zm-9-5zm-22 3zm-17 1zm-13 1zm-5-2zm-20-8zm-2 9zm-31-2zm-1 0zm-4 3zm-7-6zm-1 6zm0-4zm-5-3zm-3 3zm-4-6zm-7 1zm-5 3zm-4-4zm-1 6zm-29 3zm-14-3zm0-6zm-2 8zm-4 3zm-1-3zm-5-5zm-27 7zm-6-7zm-3 0zm-6 2zm-1-4zm-1 1zm-14-2zm-3 3zm-9 3zm-10-1zm-26 1zm-2-6zm-3 7zm-8-4zm-6-1zm3 11zm23-1zm67 1zm6 1zm5-2zm11 3zm11 0zm8 1zm15-2zm12 8zm7-6zm3-1zm6 3zm18 5zm4-2zm3-5zm15-1zm20-2zm5 5zm8-2zm8 3zm12-2zm1-3zm0 4zm18 4zm1-10zm4 2zm7 0zm1 7zm9-7zm1 0zm8 9zm1-10zm9 0zm3 0zm6 5zm1-5zm3 10zm28 0zm-11 7zm-14-4zm-2 5zm0-1zm-4-1zm-11 4zm-1-7zm-27 6zm-4 0zm-2-2zm0 5zm-1-4zm-5-4zm-9 3zm-15-4zm-1 1zm-39-2zm-4 5zm-11 3zm-1-8zm-9 0zm-8 6zm-17 3zm-11-2zm-1-2zm-4-3zm-7 6zm-1 0zm-11-5zm-5-4zm47 16zm10 0zm4 6zm6-3zm12-7zm12 0zm1 9zm13 2zm2 0zm22-4zm5 0zm3 3zm1-2zm7 2zm3-1zm17-5zm2 3zm5 1zm4-2zm1 2zm10 1zm10-7zm26 6zm2 3zm2-3zm1-3zm-8 11zm-7-4zm-13 5zm-3 1zm0 2zm-10-6zm-4-1zm-9 9zm-1-8zm-15-1zm-2 3zm-1-3zm-3 7zm-1-4zm-15-2zm-9 4zm0 2zm-6-6zm-10 3zm-23 3zm-44-7zm51 15zm1-3zm1 10zm3-8zm5 3zm5 5zm3-7zm18 7zm2-4zm12-5zm3 8zm3-6zm6 6zm5-5zm2 0zm0 1zm14-6zm4 7zm2-5zm13 0zm1 7zm1-1zm2 3zm10 0zm-2 5zm-9 7zm-4 0zm-9-7zm-9 1zm-20-4zm-15 9zm-7-9zm-7 1zm-6 9zm0-9zm-7 15zm6-3zm28 2zm20-3zm1 9zm12-9zm10 7zm-28 9zm-18-2zm-8-3zm-13 1zm-9 2z"/>
<path id="h0_5" d="M692 2224zm-7 5zm-8 1zm-61 10zm11-1zm9 2zm9 2zm3-1zm59-5zm-4 15zm-6 3zm-2-6zm-24 6zm-27-8zm-1 3zm-21 3zm0-4zm-44 10zm15 4zm2 2zm1-5zm25 6zm8 0zm5-10zm2 11zm16 0zm0-4zm4 1zm1-6zm1 5zm5-3zm30 6zm0-1zm32 14zm-32-4zm-22 2zm-15-8zm-8 6zm-7-7zm-3 11zm-5 0zm-5-11zm-9 8zm-5-6zm-11 7zm-4-9zm-33 9zm-13 1zm-13 7zm4 6zm2 0zm8 0zm29-6zm7 3zm7 0zm2 3zm4-2zm25 1zm0-7zm2 1zm9 2zm0-6zm10 3zm7-3zm13 1zm5 3zm0 0zm8 2zm3 3zm14-5zm15 0zm4-4zm3 1zm1 10zm15-5zm2 3zm8 12zm-1-1zm-11 0zm-11-5zm-3 0zm-1-1zm-8 2zm-24-2zm0 7zm-1-1zm-18-7zm0 10zm-13-8zm-23 6zm-2-8zm-1 8zm-3 2zm-13-5zm-66 1zm-3-3zm0 0zm-1 0zm-11-2zm-6 1zm-6 8zm-12-3zm-21 7zm9 3zm24 4zm21-8zm9 3zm4 0zm39 0zm18-5zm14 1zm11 9zm8-2zm6 2zm18-3zm1-2zm23 3zm5-5zm3-1zm5 4zm1 3zm13-2zm21-4zm7-2zm1 8zm5 13zm-22-5zm-13-5zm-6 5zm-7-3zm-22 7zm-1-3zm-4 0zm-3 5zm-11-11zm-7 6zm-6 4zm-13-9zm-9-1zm-3 7zm-15-3zm0 2zm-6-1zm-8 1zm-8 5zm-10-7zm-7 2zm-16-1zm-3 1zm-5 0zm0-2zm-27 5zm-22-1zm-16-2zm-5-2zm-36 18zm8-2zm6 0zm2 1zm55-6zm6 7zm18-5zm48 6zm59-8zm13-3zm14 2zm13 5zm9-5zm15 8zm3-1zm13-4zm21 2zm12-4zm-17 9zm-17 11zm0-8zm-30 8zm-2-2zm-19-4zm-9 1zm-3-6zm-6 9zm-25-6zm0-2zm-3 6zm-8 2zm-13-7zm-5 0zm-10 5zm-1 3zm-34-9zm0 6zm-2 2zm-18-5zm-5 2zm-14-5zm-1 3zm-1-3zm0 7zm-11 3zm0-9zm-9 4zm-12 1zm-1-5zm-2 2zm-11-3zm-3 2zm-4 5zm-7-2zm-12 2zm-8-6zm-19 19zm4-7zm6 0zm1 0zm26-2zm12 7zm21-7zm12 8zm2 1zm4-5zm36-1zm6-1zm5 8zm3-9zm18 2zm11 1zm11-4zm6 11zm1-5zm1-5zm5 7zm7 2zm22 0zm12-4zm8-4zm9 5zm4-2zm6 4zm18-7zm15 3zm10 4zm9-5zm2 3zm0-4zm8 0zm5-2zm5 10zm-20 5zm-11-1zm-16 0zm-33 6zm-66-9zm-1 9zm-13 1zm-26-7zm0 0zm-10 4zm-1 1zm-4 3zm-5-2zm-19-8zm-4 5zm-3 1zm-9 1zm-3-5zm-19 0zm-4 6zm-8-2zm-11-7zm-2 7zm-10 2zm-32-3zm-6 4zm-3 1zm-1 0zm-8-11zm-6 4zm-10 5zm-9 9zm25-4zm2 2zm1 7zm3 0zm0-6zm11-5zm2 11zm10-1zm52-10zm3 1zm1-1zm1 0zm8 10zm15-10zm2 11zm13-6zm25 4zm5-9zm12 3zm0 1zm12-2zm1-2zm1 11zm11-6zm21-3zm10 9zm3-5zm1 5zm18-4zm9 4zm9-1zm23-9zm8 6zm0-1zm11 5zm19-1zm9 1zm9-4zm17 15zm-9 1zm-6-10zm-17 4zm-2 4zm-1-9zm-13 2zm-34 2zm-10 3zm-14-1zm-11 3zm-7-3zm-19 0zm-1 3zm-4-3zm-9-5zm-12 2zm-5 2zm-9 0zm-2-1zm-80 1zm0-3zm-12-2zm-22 5zm-29 1zm-9-5zm-12-1zm-7 6zm-7 2zm-6 3zm-18 7zm17-1zm1-1zm13-2zm0 4zm35-5zm1 10zm16-7zm3-4zm1 0zm2 8zm1 3zm12 0zm15-6zm6-5zm17 9zm6-6zm26 2zm26 1zm12 0zm9-5zm3 9zm3-3zm2 4zm10-9zm0-2zm1 9zm2 2zm7-3zm48 3zm8-8zm3-1zm16 5zm3 4zm8-9zm5-1zm22 8zm14-7zm3 0zm5 4zm13-6zm14 7zm9 16zm-17-2zm-7-6zm-7 6zm-5-3zm-3-4zm-2 3zm-2 2zm-1 4zm0 0zm-21-4zm-20-7zm-6 5zm-13-5zm-1 2zm-1 6zm-9-8zm-3 6zm-6-6zm-7 4zm-8 5zm-3-1zm-38-6zm-7 2zm-7-3zm-18 6zm-11-4zm-38 8zm-23-8zm-1 6zm0-7zm-7 8zm-9-7zm-3-2zm-13 4zm-3 3zm-57 1zm-5-2zm-4 0zm-3 3zm-2-7zm-13 4zm-2-1zm-7 13zm23-4zm9-2zm7 9zm11 0zm4-7zm8 7zm22-7zm26 0zm14 2zm3-5zm12 6zm0 5zm9-6zm3 0zm5-4zm26 8zm6-3zm6-1zm2-2zm4 5zm2-5zm7 0zm12-2zm6 2zm12 4zm10-7zm16 6zm6 2zm29 2zm3-9zm1 0zm4-1zm6 2zm3-1zm39 1zm4 6zm29-8zm8 3zm4 6zm0-7zm16-2zm2 16zm-4 2zm-3-2zm-5 2zm-1 1zm-20-3zm-11-1zm-2 4zm0-6zm-17 9zm-5-8zm-9 0zm0 1zm-1 0zm0 1zm-6 6zm-3-7zm-9 2zm-24-1zm-4 5zm-10-2zm-5-2zm-11-2zm-18-2zm-25-1zm0 0zm-23 9zm-29-5zm-5 4zm-8-1zm-8 2zm-14-5zm-6 0zm0 4zm-16-2zm0 4zm-5-6zm-11 2zm0-3zm-9 7zm-1-8zm-12 2zm-21-1zm-5 8zm-12-2zm-5-3zm-6-5zm-56 17zm6 1zm17 1zm5 1zm59-7zm7 3zm21 6zm10-7zm3-1zm8 5zm10-4zm1-3zm10 6zm15-3zm1 0zm11 6zm2-9zm8 5zm2-2zm8-2zm24-1zm79 6zm7 0zm21 3zm0-8zm20 9zm24-10zm10 4zm6 6zm27-9zm33 8zm4-7zm38 9zm-11 5zm-6 6zm-13-5zm-12 0zm0-2zm-2 3zm-20 3zm-3-4zm-3-3zm-4 6zm-8-3zm-17 1zm-7 2zm-9-8zm-19 8zm-27-4zm-10 3zm-31-3zm-7-4zm-7-1zm-1 1zm-11 1zm-9 6zm-5-2zm-19 2zm-11 0zm-38-3zm-8-2zm-8 8zm-3-10zm-14 7zm-14-7zm-10 2zm-3-1zm-3 0zm-7-1zm-15 3zm-21 1zm-40 6zm-5-1zm-1-1zm-11-4zm-4 0zm-7 5zm-3 3zm19 0zm5 7zm20-5zm4 5zm17-4zm0-1zm16 2zm3 2zm10-7zm3 3zm17-1zm5 4zm0 0zm5-2zm16-3zm1 2zm8 7zm25-5zm6-4zm3 10zm23-5zm7-4zm6 9zm2-5zm8 0zm1 5zm7-4zm3-7zm18 0zm1 9zm11-9zm36 1zm1 5zm70-3zm14 5zm13-6zm25 3zm17-5zm10 6zm3 0zm6-5zm11 2zm8 3zm8 1zm21 14zm-13-8zm-2 0zm-4 10zm-1-2zm-39-2zm-5 4zm-6-2zm-4 0zm-23-5zm-5 2zm-13-1zm-8 5zm-2-4zm-2-1zm-2 1zm-7 4zm-16-6zm-2 2zm-37 1zm-11 0zm-5-4zm-13 4zm-15 0zm-2 0zm-11-3zm-9-1zm-7 0zm-14 3zm-21-5zm-8 7zm-34-4zm-2 1zm-13 2zm-6 2zm-15-2zm-1-5zm-8 4zm-6-2zm-17 0zm-3 7zm-15-1zm-9-5zm-8-2zm0 4zm-6 1zm-3-4zm-8-4zm0 1zm-3 9zm-18-6zm-9 2zm-7 2zm7 7zm2-2zm12 8zm16-6zm4 2zm4-5zm3 1zm19 2zm0 2zm6-3zm0-1zm8 7zm7-1zm34-3zm37 0zm36-3zm10 4zm16 5zm4-2zm16-6zm9 9zm6-6zm2 3zm5 1zm5 2zm4-8zm15 4zm5-6zm8 9zm27-9zm2 5zm3-3zm6 7zm23-9zm5 5zm0-5zm13 8zm3 2zm5-2zm1-9zm3 10zm10-7zm2 1zm16 6zm4-9zm5 6zm36 2zm0-7zm8 2zm14 2zm2-1zm0 9zm-10 8zm-22-4zm-47-1zm-3 2zm-14-7zm-3 8zm-9-7zm-8-1zm-1 9zm-5-4zm-18-2zm0 8zm-1-7zm-1 4zm-10 3zm-2-5zm-12-6zm-2 2zm-5 0zm-29-2zm-19 2zm-5 4zm-3-5zm-9 10zm-7-4zm-10-6zm-4 3zm-3 1zm-3-4zm-9 9zm-27-2zm-7 2zm-5-10zm-4 9zm-10 0zm-15-6zm-9 2zm-3 3zm-2-7zm0 8zm-31-1zm-19-8zm-9 6zm-10 2zm-7-8zm-25 0zm-8 5zm-1 5zm-11-9zm9 12zm31-1zm31 0zm10 3zm19-2zm1 2zm3 3zm34 5zm4-7zm10 5zm1 1zm1-1zm2-1zm7-2zm3 3zm9-8zm2 9zm11-8zm9 6zm1 0zm5-4zm10 4zm14-1zm13 1zm34-5zm2 7zm1-3zm13-6zm23-1zm4 0zm5 1zm31-1zm4 0zm32 2zm4 9zm2-6zm3 0zm13-1zm1 6zm0 0zm2-6zm4-1zm1 8zm9-4zm0-5zm38 3zm8-2zm8 6zm1 2zm15-6zm4 0zm16 12zm-3-1zm-15 4zm-6-6zm-27-2zm-26 6zm-4 0zm-4 0zm-16 4zm-2-5zm-5 6zm-10-6zm-14 0zm-47-5zm-9 10zm-4-4zm-13 4zm-10-2zm-3-5zm-8 8zm-13-8zm-14 5zm-6-6zm-54 6zm-19 2zm-21-4zm-2 1zm-18-7zm-9 7zm-5-2zm-3-3zm-3 7zm-6 0zm-20-2zm-5-1zm5 8zm10 9zm14-2zm3-3zm10-1zm5-1zm13 3zm4-7zm15 11zm1-4zm1-5zm12 4zm25-3zm0 6zm22-3zm6-4zm1 3zm8 6zm12-8zm10 8zm21-9zm28-2zm4 11zm4-10zm11 3zm22 4zm5-4zm25 3zm7 0zm1-3zm18 6zm2-7zm4 3zm8 4zm19-1zm15-7zm3 8zm5-4zm20-6zm6 11zm3 0zm-15 9zm-3-4zm-4-3zm-10 5zm-7-1zm-27 4zm-10-5zm-20 1zm-36-1zm0-1zm-15 4zm-32 1zm-21 2zm-6-9zm-45-1zm-12 2zm-3 9zm-9-9zm-7 6zm-13-5zm-1 3zm-12-1zm-8-3zm-1 3zm-29 2zm-13-3zm-23 10zm2 8zm1-7zm2 6zm3-4zm24 0zm14-4zm1 4zm5-5zm0 10zm3-8zm14-2zm10 9zm10 1zm5-6zm8-1zm15 8zm3-4zm28-2zm29 2zm23 3zm22-1zm9-2zm1-1zm6 3zm2-1zm6-3zm7 1zm5 5zm12-1zm2-2zm13-3zm5-4zm4 0zm11 6zm25 2zm9-6zm5 0zm0 5zm19 2zm0-3zm4-7zm17 3zm4-2zm-1 17zm-14-2zm-13-1zm-20 4zm-3-6zm-7 0zm-9 2zm-6 1zm-20-1zm-8 1zm-7-3zm-4 10zm-14-11zm-4 1zm-6 5zm-8 2zm-3-6zm-25 6zm-18-5zm-5-1zm-1 6zm-19-1zm-11-3zm-4 4zm-18-3zm-14-5zm0 8zm-6-4zm-1 5zm-8-4zm-4 1zm-5-4zm-2 2zm-1-2zm-2 5zm-3-4zm-1 4zm-1 0zm-3 0zm-9-1zm-7-5zm-32 1zm-15-1zm-1 0zm-2 4zm-15-4zm-4 6zm-1-6zm41 11zm74 4zm3 4zm4-5zm3 2zm2 3zm6-3zm12 5zm2-7zm1-3zm26 2zm0 2zm1-3zm6 0zm13 4zm4-2zm22 1zm8 2zm4 1zm12-5zm18 7zm11-9zm6 7zm7-3zm9 2zm25 4zm15-8zm2 0zm2 8zm3-1zm8 0zm9-2zm4 0zm5 4zm3 0zm-1 2zm-3 9zm-8-5zm-20-4zm-18 1zm-46-2zm-7 8zm-19-8zm-6 4zm-5 3zm-12 0zm-12-3zm-23-2zm-8 1zm-11 4zm-17-6zm-9 7zm54 10zm2 4zm6-7zm9 8zm13-7zm10 1zm0 1zm1 4zm7 0zm3-7zm8 0zm1-3zm9 6zm17-6zm8 2zm6 6zm2-5zm6 6zm2-5zm26 6zm15-6zm5 0zm0 0zm0-3zm1 7zm3 0zm2-7zm-18 16zm-4-4zm-5 6zm-1-4zm0 6zm-2-4zm-16-3zm-4 6zm-3-3zm-3-2zm-11 5zm-6-6zm-35 1zm-4 4zm-5 1zm-7-7zm-25 5zm-9-3zm26 19zm6 1zm10-9zm33 8zm11-4zm19-2zm10 6zm5-9zm21 13zm-47 9zm-13-8zm-2 0zm-7 2zm-7 0zm-15-3zm-12-2zm-3 0zm20 17zm16-5zm17 7zm2 2zm6-9zm7 8zm0 4zm-7 8z"/>
<path id="h0_6" d="M606 2221zm25 19zm0 3zm27-1zm5-9zm6 4zm11-1zm4 8zm-6 5zm-26 0zm-2-3zm0 3zm-2 4zm-16-7zm-5-1zm-16 8zm-41 12zm11-8zm8 9zm21-3zm6 2zm3-9zm54 7zm0 1zm30 3zm0 0zm5-4zm-3 15zm-4-1zm-9-6zm-3 1zm-4 7zm-5-5zm-15 1zm-12-6zm-19 8zm-35-1zm-10-2zm-21 4zm-6-10zm-1 6zm-4-3zm-15 12zm20-3zm9 6zm6 3zm15-8zm4 8zm20-2zm14-3zm15 1zm9-2zm9-1zm11-2zm46 3zm15 13zm-2-1zm-20 3zm-1-6zm-1 2zm-1 9zm-4-9zm-2 0zm-3 1zm-7-3zm-7 8zm-6 1zm-4-6zm-2-2zm-19 3zm-14-2zm-11 7zm0-4zm-30-3zm-9 4zm-5 4zm-3-2zm-2 2zm-1-9zm-33 6zm-4 3zm-32-1zm-20 7zm7 3zm20-1zm8-5zm13 4zm18 6zm18-6zm1 5zm1-1zm11-2zm2-1zm2-6zm2 10zm49-10zm0 10zm1-9zm12 9zm14-4zm9 3zm21-8zm9 9zm11-3zm12 1zm9 1zm2 8zm-7 4zm-15-4zm-16-1zm-21-1zm-5 1zm-7 6zm-3-7zm-10 7zm-11-1zm-3-8zm-8 5zm-9 5zm-7-10zm-9 3zm-14-1zm-3-2zm-1 0zm-11 8zm-11 1zm-8-4zm-12-2zm-5-3zm-6 9zm-24-10zm-1 2zm-12 0zm-2 0zm-2 8zm-10-5zm-32 15zm2-1zm7-7zm10 0zm3 1zm24-1zm20 7zm25-3zm11-2zm6-1zm21 4zm9 2zm29 3zm4-2zm26-3zm2 0zm8 1zm29-6zm0 6zm5 3zm2-8zm6 1zm5 3zm2-3zm30 3zm6-3zm-1 18zm-10-8zm-4 3zm-12 7zm-18-10zm-16 9zm-29 2zm0-11zm-9 11zm-5-3zm-10 0zm-9-4zm0 4zm-1 1zm-15 2zm-7-10zm-7-1zm-22 10zm-36-7zm-1 1zm-3 2zm-2-6zm-21 1zm-2 8zm-2-7zm-3-1zm-14 1zm-25 0zm-3 8zm-10-6zm-18 3zm-12 13zm4 1zm25 0zm44-4zm17 5zm1-7zm5 7zm27-7zm43 5zm17-7zm11 7zm19-2zm1-6zm23 11zm4-5zm34-2zm13-1zm6 2zm-34 17zm-12 0zm-26-10zm-14 9zm-1-7zm-8 0zm-3 6zm-10-6zm-10-1zm-36 8zm-23-4zm-8 2zm-5 0zm-38-2zm-5-3zm-8-1zm-29 5zm-31-4zm-16 2zm-3 6zm-5-1zm0 4zm3 6zm2-5zm13 7zm19-8zm6 5zm0 1zm28 1zm10-8zm2 1zm5 3zm1-2zm6 8zm18-4zm11 0zm9 5zm2-5zm3 2zm5-1zm11-1zm5-4zm11 5zm12 1zm1-2zm34-4zm2 6zm1-8zm3 11zm24-2zm20-5zm3 7zm13-2zm5 1zm12-1zm6-7zm57 3zm-1 16zm0 2zm-12-7zm-7-3zm-3 3zm-18-4zm-10 7zm-4 0zm-3-2zm-16 6zm-9-8zm-31 6zm-12-8zm-8-1zm-12 6zm-17-4zm-1 3zm-12-2zm-1 1zm-5 5zm-5-5zm-6-4zm-12 9zm-15-6zm-37 3zm-46-3zm-6 4zm-9 1zm-6-5zm-8 8zm-1-11zm-11 8zm-21-7zm-9 0zm26 11zm3 3zm6 4zm1-5zm15 4zm0-1zm10-5zm2 4zm11 0zm6 7zm3-3zm8-5zm25 6zm2 0zm27-9zm0 9zm9-3zm6 3zm0-2zm37 1zm25-3zm4 2zm2-1zm9 3zm20-8zm3 10zm13-8zm0 8zm17 0zm7 0zm43-2zm10 0zm6 0zm11-7zm12 7zm5-8zm20 10zm10 11zm-18 0zm-5-4zm-6-1zm-7 6zm-3-8zm-16 0zm-12 8zm0-1zm-7-1zm-15-4zm0 5zm-3-4zm-74-4zm-1-1zm-17 6zm-28-6zm-12 3zm-3 0zm-29-3zm-35 7zm-15 3zm-9-7zm-23 7zm-11-11zm-48 10zm-5-8zm-5 1zm-3 4zm-19 15zm25 1zm7-11zm3 8zm4-8zm6 1zm14 4zm17-3zm10 3zm10 1zm1 1zm6-6zm5 6zm24-2zm1 2zm9 3zm0-9zm3-1zm26 0zm46 3zm38-1zm7 4zm12 5zm2-1zm1-10zm9 3zm1-3zm6 2zm9 1zm0 8zm7-3zm8-2zm14 4zm15-2zm1-6zm6 5zm7 4zm20-9zm9 7zm3-2zm4 3zm1-4zm3 3zm3 2zm19-9zm25 12zm-4 7zm-28 2zm-4 0zm-1-10zm-6 0zm-10 4zm-7 1zm-1-4zm-14 2zm-12 0zm-12 2zm-28-4zm-30 5zm-10-1zm-19 0zm-5 3zm-16-9zm-11 3zm-4 1zm-17 6zm-17-5zm-10-2zm-5-3zm-1 0zm0 10zm-4-9zm-2 5zm-20-2zm-2-4zm-3 10zm-3-4zm-19-6zm-3 2zm-9 9zm-10-4zm-3-1zm-24 2zm-6 0zm-25-3zm0-3zm-2 8zm-9-1zm-2-5zm-6 3zm-3-7zm-4 2zm-27 3zm1 18zm2-2zm14 2zm9-2zm1-5zm12-2zm2 6zm15-2zm3 0zm4 1zm31-5zm8 7zm6-3zm14-1zm8 5zm4-5zm14-4zm24 1zm9 6zm6 2zm9-8zm21 1zm2 1zm0 5zm35-6zm8 0zm4 1zm10 2zm2 1zm4-3zm25-3zm11 9zm14-3zm26-1zm4-6zm4 11zm9 0zm2-1zm48-10zm12 6zm15-2zm3 0zm13 5zm26 9zm-15-4zm-15 1zm-16 7zm-7-5zm-12-3zm-5 7zm-15 2zm-19-6zm-10 4zm-11-6zm-9 6zm-4-4zm-2-3zm-21-1zm-11 9zm-15-4zm-3-1zm-46 0zm-52 5zm-13-3zm-4 2zm-12-8zm-2 5zm-36 5zm-38-7zm-1-4zm-26 8zm-9 3zm-10-8zm-36-1zm-1-1zm-21 18zm18-2zm9-5zm2 1zm34 10zm11-6zm36 3zm7-8zm4 6zm3 0zm1 4zm11-8zm10 6zm15-2zm7 2zm2-1zm29 2zm4 0zm7-1zm9 3zm9-8zm6-2zm9 1zm4 5zm3 1zm9-1zm0-2zm8 1zm10-6zm40 10zm18-10zm2 11zm7-4zm7-7zm10 9zm4-7zm3 4zm1 1zm1-5zm12 8zm11-5zm21 3zm6-8zm3 5zm7 0zm2 1zm3 3zm1-3zm11-4zm0 7zm14-6zm11 1zm6 6zm16 0zm11 4zm-10 8zm-14 0zm-2-6zm-1 7zm-13-2zm-32-2zm-2-5zm-1 9zm0-4zm-30 1zm-23-2zm-3 3zm0 2zm-15-8zm-34 6zm-1-6zm-3-2zm-2 1zm-7 5zm-4 2zm0-1zm-13 2zm-2 0zm-8-6zm-18 7zm-2-11zm-11 0zm-21 4zm-5 5zm-75-4zm-6 5zm-3 0zm-18-6zm-17 6zm-4-10zm0 8zm-3-1zm-4-3zm-8 0zm-6 4zm-40 0zm-4-3zm-10 4zm-10-9zm-2 4zm7 19zm1-6zm40-4zm32 6zm53-4zm8 4zm5-2zm29 4zm49-3zm4 4zm5-9zm12 2zm31 4zm21-7zm3 9zm9-5zm19-1zm19 2zm9 4zm7-9zm0 9zm2-7zm1-1zm7-1zm12 8zm3-3zm3-4zm3 4zm9-3zm14-2zm3 5zm14 3zm27-1zm4 3zm3-9zm37 5zm0-6zm6 22zm-1-7zm-21 6zm-29-8zm-14 0zm0-1zm-6 0zm-13 7zm-14-1zm-20 5zm-15-5zm-2-2zm-4-3zm-5 8zm-13 0zm-5-2zm-44-7zm-2 2zm-6 6zm-4 1zm-3-9zm-33 4zm-1-1zm-11 3zm-2 2zm-21 2zm-4-9zm-17 8zm-22-7zm-11-1zm-41 3zm-5-3zm-4 10zm-11-8zm-16 5zm0-7zm-8 4zm-3-5zm-2 5zm-2 4zm-25-4zm-1-4zm-22 5zm95 12zm25-6zm18 1zm16 9zm3-5zm8-1zm9 0zm5 6zm10-10zm0 8zm4-7zm1 1zm1 4zm12 0zm1 3zm6-2zm5-1zm25 2zm3-7zm9 10zm56-7zm23-1zm25 5zm2-3zm10 4zm2-5zm23-3zm10 10zm4-1zm23-7zm12 4zm12-2zm1 3zm1 0zm4-2zm14-4zm12 16zm-9 5zm-29 0zm-7-4zm-3-5zm-25 9zm-2-3zm-11 3zm-25-3zm-3-3zm-13-3zm-51 3zm-8 5zm-15 0zm-14-3zm-5-1zm-4-5zm-12 5zm-5 1zm-14-3zm-13-3zm-50 0zm-9 10zm-37-8zm-17 2zm-9-5zm-16 19zm33 3zm18-6zm29 0zm31-2zm3-1zm8 4zm6-2zm3 2zm29 4zm1-5zm4 2zm2 4zm6-6zm26 5zm3-5zm30 3zm20-1zm6 1zm14-6zm0 9zm14 1zm6-4zm2-4zm11 6zm7 0zm32-6zm5-3zm2 0zm1 6zm15-4zm7-1zm1 2zm3 0zm14 1zm16 6zm8-3zm-9 15zm-6 1zm-7-4zm-1-1zm-7-3zm-11 5zm-19-3zm-18-3zm-16 2zm-3 2zm-5-6zm-35 7zm-15-7zm-16 2zm-1 5zm-1-3zm-1-2zm-7 5zm-4-7zm-12 6zm-9 5zm-16-1zm0-7zm-2 7zm-13-2zm-6-2zm-3 3zm-8-5zm-14-4zm-21 3zm-14 4zm-1 4zm-6-6zm-6 5zm-18-5zm-36-3zm-9 0zm-4-1zm0 20zm16-5zm2 2zm27-5zm7 1zm6 6zm2-3zm16-2zm14 5zm2 2zm12-8zm28 2zm3 6zm2-1zm24-9zm10 11zm19-8zm9 7zm16-4zm17 4zm2-6zm18-1zm1 7zm11-9zm23 1zm11 0zm7 3zm3 4zm39-4zm33-4zm-20 20zm-7-5zm-18 7zm-1-8zm-37-2zm-11 1zm-1 7zm-2-9zm-12 0zm0 2zm-13 3zm-3-5zm-8 2zm-12 1zm0 2zm-4-1zm-9 0zm-13-4zm-29 10zm-73-7zm-1 0zm-8 2zm-79 4zm-3-2zm87 8zm24 1zm7 1zm6-5zm2 3zm30 5zm25-4zm19 1zm0 5zm22-10zm22 3zm23 3zm31 5zm2-5zm1-1zm2 0zm4 5zm7-3zm1-7zm3 7zm3 4zm9-7zm8 17zm-40-4zm-11 6zm-20-7zm-2 2zm-12 1zm-5 4zm-11 0zm-12-9zm-7 1zm-16 8zm-27 0zm-8-6zm-11-3zm-9 0zm-7 9zm-8-7zm20 14zm1-2zm11 5zm3-7zm17 1zm12 5zm4-6zm2 4zm10 5zm21-8zm20 5zm6 2zm22-8zm2 9zm14 0zm1-11zm3 0zm15 8zm2-5zm2 5zm-2 4zm-8 9zm-20 1zm-1-4zm-5 0zm-13 4zm-20-1zm-8-4zm-34 5zm-4 0zm-3 1zm-7-4zm24 16zm19-11zm0 9zm7-1zm7 1zm0-4zm2-3zm7 3zm32 4zm25-8zm4 10zm-8 7zm-46 5zm-10 0zm-11-9zm-4-2zm-1 5zm-7 8zm1-1zm6 5zm13 3zm4 0zm36-5zm-13 10zm-34 3zm-3 3z"/>
<path id="h0_7" d="M676 2222zm-1 7zm-35 9zm18-2zm4 4zm1 2zm34-6zm-13 19zm-47-7zm-32 7zm-3-7zm-49 17zm29-9zm10 9zm4-7zm8 1zm29 7zm33 1zm2-9zm8-2zm9 10zm1-7zm8 20zm-33-9zm-3-2zm-5 11zm-11-1zm-29-9zm-36 6zm-19-2zm15 17zm2-6zm1-1zm10 6zm8 0zm15-5zm9 7zm7-11zm3 10zm30-6zm15-1zm40 7zm-28 9zm-15-6zm-10 9zm-35-1zm-48 2zm-39-10zm-4 0zm-10 0zm-6 7zm-20 8zm43-4zm3 0zm5 1zm39 6zm20 3zm8-5zm1 1zm9 5zm18 0zm7-7zm3 3zm24-5zm2 4zm26-6zm9 1zm21 5zm-13 13zm-21-5zm-2 1zm-5 6zm-12 1zm-3 0zm-10-1zm-10-9zm-1 3zm-7-2zm-10 6zm-18-7zm-6 1zm-5 5zm-5-4zm-27-2zm-25 9zm-3-4zm-10-3zm-1 0zm-21-1zm-27 10zm-7-11zm-42 22zm21-3zm11 1zm24 0zm4 3zm12-4zm5-3zm4 7zm7-8zm1 1zm4-2zm9 8zm2-2zm18-5zm25 4zm34-2zm17 1zm2 2zm11-2zm17-6zm5 0zm1 3zm2 4zm35-1zm7-3zm13 3zm0 16zm-9-2zm-21-1zm-23 1zm-3-1zm-1-6zm-16 3zm-29 4zm0 1zm-48-3zm-3-4zm0-1zm-3 1zm-9 4zm-89 1zm-5-2zm-12 5zm-9-6zm-24 6zm19 8zm10 0zm16 4zm3 0zm19-1zm11 0zm50-4zm3 6zm4-10zm1 1zm21 0zm11 5zm4-7zm12 8zm17 2zm16 0zm97-9zm-10 16zm-9-4zm-8-1zm-8 7zm-42 1zm-12-3zm-1 3zm-3-6zm-7-2zm-5 6zm-12-6zm-13 6zm0 1zm-11-5zm-55 7zm-33 0zm-5-4zm-77-3zm-9 8zm-2-4zm-4-6zm-18 9zm-9 0zm28 11zm20 2zm4-1zm100-6zm13 1zm16 4zm4 0zm4 1zm13-6zm8 7zm6 0zm17-8zm20 8zm18 1zm24 0zm57-8zm13 17zm-18-5zm-6 1zm-5-2zm-12-2zm-11 5zm-48-3zm-3 7zm-3-6zm-2 7zm-3-9zm-18 6zm-16-5zm-8 9zm-48-5zm-2-4zm-14 9zm-19-3zm-42-7zm-38 7zm-1-8zm-1 0zm-7 6zm-2-2zm0-2zm-18 0zm-19 7zm-1 1zm-24-6zm-1 17zm10-5zm10 2zm8 5zm3-6zm5 5zm0 0zm3-8zm42 3zm36-1zm1 3zm6 3zm9-9zm38 7zm26-6zm1 3zm9-5zm36 6zm3-6zm39 7zm19-3zm8 4zm28 0zm1-4zm2-4zm12 6zm19-6zm10 9zm31-9zm-2 19zm-38-3zm-22-3zm-6 0zm-16 3zm-13-3zm-29 0zm-1-1zm-33 5zm-11 1zm-8-5zm-10 10zm-4-3zm-20 2zm-33-7zm-5 4zm-21 3zm-7 1zm-17-2zm-25-1zm-11 1zm-5-5zm-21 6zm-3-2zm-3 3zm0-3zm-5-2zm-28 3zm-12-1zm-1 3zm-2-1zm-11 12zm30 1zm15-6zm18-2zm17-3zm2 9zm4-8zm10 6zm30-3zm6-2zm1 0zm9 3zm5 0zm107 1zm27 2zm31 1zm8-8zm9 3zm26 5zm1 0zm22-2zm28-5zm2 8zm12-4zm21 4zm-18 7zm-6 6zm-29-1zm-4-8zm-18 7zm-5-7zm-3 4zm-35 4zm-56-1zm-8 2zm-4-4zm-11-3zm-32 7zm-2-3zm-1-8zm-12 2zm-5 5zm-12-6zm-3 5zm-2 1zm-3-6zm-8 3zm-14 1zm-52 6zm-3-7zm-4 4zm-8-4zm-13-1zm-51-1zm-21 3zm24 10zm12 0zm8 4zm2-7zm1 7zm17 4zm6-5zm10-4zm24 1zm13 7zm9-5zm13 5zm19-5zm56-5zm36 4zm28 6zm6-8zm5 3zm22 6zm14-3zm7 2zm11-3zm3-6zm64 6zm13 4zm29-10zm9 9zm14 1zm10-9zm-67 14zm-5-1zm-7-2zm-14 2zm-26-1zm-12-2zm-13 6zm-4 3zm-8-1zm-1 0zm-6 1zm-12-3zm-7 4zm-4 0zm-7-9zm-1 8zm-6 1zm-6 0zm-10-4zm-8 5zm-63-5zm-15-3zm-22 6zm-36-1zm-22 0zm-1-2zm-2-5zm0 1zm-27-2zm-22 8zm-1-4zm-2-3zm-29 1zm-8 0zm-9 9zm-6-5zm16 11zm11 3zm10 3zm27 0zm15-8zm1 4zm10 3zm15-6zm5 2zm2-1zm0-3zm5 0zm20-1zm14 5zm21-4zm12 7zm31-3zm19 1zm0 3zm2-2zm1 3zm4-4zm4 2zm2-1zm19-3zm7 3zm2-4zm1-1zm8 8zm4-8zm11 5zm6-6zm3 7zm40-5zm12 3zm9 0zm34-6zm32 1zm25-2zm13 10zm9-9zm8 1zm3 2zm2-4zm1 21zm-11 0zm-4-2zm0 1zm-10-2zm-57-2zm-5-3zm-3 10zm-31-3zm-12-8zm-14 0zm-2 9zm-47-3zm-74 3zm-3-1zm-5-4zm-15 7zm-6-11zm-3 6zm-3 0zm-74-6zm-10 7zm-2 3zm-18-3zm-63-4zm-3 8zm-4 4zm36 4zm3 0zm5-4zm9-2zm15 9zm17-2zm18-4zm3-3zm1 4zm22 4zm13-4zm40 4zm7-9zm1 1zm17 6zm35-2zm13 2zm9-6zm11 3zm13 6zm37-6zm35 5zm3-7zm9 9zm4-4zm17-7zm12 5zm11 5zm54 1zm7-10zm39 16zm-2-5zm-25 7zm-20 3zm-39-7zm-3 5zm-45-5zm-9 0zm-21 1zm-1-3zm-17 10zm-19-4zm-10-3zm-15-2zm-3 8zm-4-6zm-18-1zm-34-1zm0 6zm-10-8zm-2 7zm-20 3zm-1-1zm-16-1zm-8 2zm-4 0zm-2-3zm-38 1zm-15-3zm-2 2zm-9-7zm-11 9zm-25-5zm-25 2zm-14-4zm6 14zm60 0zm36-1zm10 1zm27 5zm79 0zm8-1zm10-5zm5 0zm13 2zm18 1zm54 1zm8 4zm14-5zm22 3zm2-7zm15-2zm47 10zm24 0zm15 0zm7-10zm13 2zm-19 17zm-4-1zm-8 4zm-8 0zm-7-10zm-38 0zm-4 10zm-4-7zm-6 6zm-10 1zm-54-7zm-17-2zm-27 6zm-11-3zm-2 1zm-2-1zm-19 3zm-42-2zm-4 0zm-7 4zm-11-7zm-4 4zm-10 3zm-2-5zm-36 1zm-10-4zm-10 0zm-18 2zm-20-2zm0 21zm22-1zm14-7zm9 3zm22 4zm18-1zm4-4zm39-3zm1 6zm34-1zm34 5zm4-7zm2 2zm17 0zm0 2zm15-7zm2 3zm22-3zm1 2zm19 5zm19-6zm33 5zm8 3zm16-2zm5-8zm25 2zm5 7zm0-4zm15 5zm-20 7zm-2 3zm-30 3zm-8-8zm-1 1zm-5 7zm-5 0zm-29 0zm-9-11zm-2 3zm-1 1zm-22 6zm-19 0zm-1-8zm-11 0zm-9 9zm-19-6zm-21-1zm-13 7zm-15-7zm-8-3zm0 6zm-53 2zm-16-4zm-5-3zm-36 9zm-16 9zm26-1zm68-1zm4 5zm4-4zm7 2zm12-4zm4 6zm0-7zm11 6zm34-3zm14-1zm5 4zm9-1zm7 0zm4 1zm59-4zm1 4zm3-7zm13 6zm2-3zm26 4zm5-5zm2 0zm35 1zm25-6zm5 10zm-18 10zm-18-1zm-13 3zm-8-8zm-9 8zm0-5zm-17 2zm-20 1zm-42 3zm-1-2zm-4-1zm-1 2zm-11-2zm-1-4zm-6-4zm-27 10zm-29-10zm-18 5zm-4 4zm-137-6zm95 10zm32 8zm4-5zm1-1zm3 2zm9 4zm38-9zm7 7zm4-2zm1 6zm2-10zm17 10zm1-7zm28 7zm36-1zm5-10zm3 8zm7-3zm6 3zm40 1zm6-8zm24 7zm5-3zm11-2zm-55 15zm-11-3zm-13 4zm-17-4zm-7 4zm-64-2zm-37 0zm-2 6zm-21-11zm46 18zm12-4zm4 2zm5-1zm6-3zm22 9zm21-3zm8 3zm3 0zm2-2zm2-7zm2 11zm5-9zm1 1zm4-3zm6 1zm15 6zm1 0zm2-4zm3-2zm0 10zm1-9zm21 8zm19-4zm-11 14zm-11-4zm-23 5zm-5 1zm-2-10zm-3 6zm-33 4zm-51 6zm10 3zm21-1zm8 2zm41-1zm6 0zm28 5zm-13 3zm-10-1zm-9-1zm-21 1zm-6 0zm-8 2zm-3 4zm-6-3zm-25-4zm-9 4zm-1-5zm28 14zm20 7zm5-2zm10 9z"/>
<path id="h0_8" d="M641 2231zm-15-4zm-10 11zm43-6zm15 1zm-54 20zm-1-6zm-14 0zm-8 7zm13 4zm7 3zm37-4zm44 1zm3 0zm20 19zm-3 2zm-13-3zm-3-4zm-21 0zm-62 7zm-4-5zm-13 2zm-19-7zm-27 15zm8 4zm14-1zm27 0zm35-7zm16 5zm7-3zm9 4zm4-5zm29-1zm3 10zm1-10zm27 23zm-4-5zm-2 1zm-5 3zm-2-5zm-12-3zm-19-1zm-29-1zm-12 8zm-24-8zm-21 8zm-7-6zm-17 2zm-19-2zm-3 8zm-7-7zm-2 0zm-20 8zm-2-5zm-15 5zm-26 11zm13 0zm8-10zm3 7zm8-7zm9 3zm7 3zm15 0zm3-2zm20 4zm71 1zm4-5zm15 4zm1-7zm5 7zm9-5zm16-1zm56 18zm-6-6zm-1-1zm-2 10zm-1-10zm-2-1zm-4 4zm0 2zm-6-5zm-2 8zm-9 1zm-48-10zm-39 4zm-22 7zm-20 0zm-59-4zm-22 1zm-2 2zm-5-6zm-3 3zm-20-4zm-1 4zm-25 13zm31-3zm15 3zm15-7zm73 4zm31 4zm28-5zm28-2zm14 1zm33 5zm1-5zm10 0zm0-2zm23 3zm-9 13zm0-2zm-3 6zm-28 2zm-4 0zm-10-1zm-73-6zm-12 6zm-75-2zm-10-1zm0-6zm-67 0zm-10 10zm-1-10zm-15 4zm6 12zm25 0zm3 5zm27-3zm2-4zm17 8zm9-5zm3 4zm2 1zm6-9zm19 7zm4-9zm6 10zm45 0zm2-4zm7-5zm9 9zm36 1zm12-1zm12-6zm15 2zm35 7zm-2 2zm-31 6zm-33-6zm-1 0zm0 2zm-19 4zm-2 1zm-8-7zm-18-3zm-31 0zm-4 7zm-64-3zm-4 7zm-15-2zm-11-5zm-6 3zm-67 0zm-12 4zm-40 12zm17-4zm45 4zm2-4zm52-4zm47-2zm4 9zm13-4zm24-3zm13 4zm23-5zm18 0zm2 9zm38-4zm15-4zm3-1zm66 0zm-10 20zm-8-4zm-8 2zm-29-2zm-7 1zm-15-2zm-18 2zm-4 2zm-33-4zm-11 3zm-25-2zm-36 0zm-26-1zm-15 3zm-7 2zm-42-1zm-18-7zm-21 5zm-1-3zm-5 4zm-20-6zm-3 9zm-1-9zm-13 5zm0 15zm6-1zm45-6zm14 4zm1 4zm8-8zm13-2zm39 3zm6 4zm18 0zm21-7zm1 2zm15 2zm9 3zm3 0zm20-4zm11 7zm1-8zm0 3zm6-5zm3 4zm6 4zm19-2zm2-7zm58 3zm12 8zm2-8zm6 0zm28 7zm5-5zm7-5zm7 11zm-49 2zm-3-1zm-39 7zm-1-6zm-20 1zm-15-2zm-6 11zm-49-5zm-11 0zm-7 4zm-8-8zm-103 7zm-32-1zm-23-3zm-11 5zm-7-2zm-15 5zm3 9zm4-2zm3-4zm2 4zm2-2zm5 1zm32-4zm18 4zm5 3zm27-2zm17 3zm58-6zm7 3zm6-2zm55-2zm22-1zm21 4zm5 0zm20-5zm21 1zm28 5zm44-6zm32 12zm-6 0zm-41 1zm-27 0zm-7 3zm-5 5zm-24-3zm-15 3zm-32-6zm-4 3zm-9 1zm-5-8zm-17 5zm-34-1zm-7 6zm-3-10zm-23 8zm-2 2zm-4-11zm-37 1zm-20 0zm-5 8zm-46-9zm-25 6zm-6 2zm-25-7zm6 14zm3 2zm0 6zm40-3zm34-5zm3 1zm6-1zm5 1zm2 2zm2-3zm36-2zm13 8zm8 0zm87-4zm34 3zm4 2zm44-8zm52 4zm35 4zm9 0zm16-1zm9-4zm-2 10zm-10 4zm-14 4zm-13 0zm-55-8zm-23 2zm-25 2zm-7-4zm-8-3zm-19 8zm-19-4zm-77-2zm-32-1zm-12 6zm-1-7zm0 5zm-74-1zm-9 5zm-10-3zm-34-3zm-8-2zm-2 6zm13 6zm4 2zm7 6zm18 1zm12-8zm57 3zm14 4zm8 2zm3-1zm6-9zm25 1zm75 3zm33-4zm3 7zm39-6zm8 8zm5-5zm2-3zm53 1zm33 2zm11-4zm5 1zm7 8zm8-1zm34 0zm0 11zm-3 2zm-25-2zm-16-3zm-31-2zm-5 4zm-44-7zm-22 1zm-16 8zm-16-9zm-14 8zm-9-4zm-2 3zm0 0zm-8 4zm-3-10zm-19 3zm-10-4zm-24 3zm-36 1zm-21 0zm-49 6zm-15-8zm-6 1zm-4 7zm-44-5zm-22-4zm-13 1zm53 12zm3 2zm17 1zm12 5zm13-10zm10 0zm45 8zm22 1zm29-8zm21 1zm10-1zm31 9zm2 1zm2-10zm10 1zm1-1zm35 1zm9 4zm31 4zm10-6zm53 4zm88 11zm-10-7zm-17 3zm-7 3zm-54-1zm-4-2zm-7 3zm-17 1zm-3-4zm-34 5zm-5-1zm-35-5zm-10 7zm-43-2zm0-1zm-1 2zm-25-7zm-24 5zm-1-1zm-21 0zm-2 1zm-31-5zm-16 0zm-21 10zm-32-10zm-27 5zm-53-2zm17 8zm61 1zm48 8zm3-8zm17 0zm6 10zm10-11zm17 2zm1 3zm10 1zm51-2zm36 0zm5-3zm7-1zm3 5zm12 0zm2 4zm1 1zm55-9zm33 2zm22 0zm20 7zm8-10zm21 6zm14-3zm15 0zm17 4zm-24 15zm-23-8zm-12-1zm-2 6zm-26-1zm-10 4zm-25-4zm-4-5zm-21 3zm-49 0zm-9 3zm-76-7zm-27 6zm-18 3zm-3-4zm-32-4zm-36 9zm-3-10zm-7 7zm-16-6zm-2 2zm51 13zm52 6zm8-1zm23-1zm7 1zm9-8zm7-1zm36 0zm20 10zm1-4zm2-1zm5 4zm25-2zm25-6zm29 4zm30 5zm17-6zm24 2zm10 1zm5 1zm21 11zm-38-2zm-12 1zm-53-3zm-7-2zm-4-1zm-22 10zm-19-1zm-1-1zm-6-4zm-7 1zm-2 3zm-20 2zm-23-3zm-1-3zm-14 7zm-11 0zm-9-4zm-20-4zm-45-1zm-2 8zm-24-4zm-8-1zm8 12zm4 1zm25-5zm8 6zm2 1zm33-5zm39-3zm12 11zm25-3zm17 2zm31-6zm31 7zm28-11zm7 9zm4-9zm5 0zm11 0zm8 6zm1 1zm7-7zm21 10zm29-1zm-1 3zm-10 3zm-5 1zm-20 1zm-26-3zm-18 5zm-14 4zm-3 0zm-43-11zm-3 4zm-1 3zm-2-6zm-16 8zm-68-8zm-94 0zm-10-1zm-29 7zm-6-4zm82 9zm8 5zm34-1zm7 5zm19-4zm1-2zm16-2zm4 7zm4-8zm5 1zm3 4zm36-1zm50 0zm7 6zm9-4zm32 2zm1-2zm15-4zm7 6zm1-4zm23 9zm-16 7zm-3-5zm-13 2zm-4 3zm-86 3zm-8-2zm-2-4zm-53 1zm-5 1zm-6-6zm36 11zm11 11zm4-4zm22-7zm7 6zm2-5zm1 5zm26 1zm34 4zm3-9zm4 2zm3-3zm-3 15zm-2 1zm-21 5zm-10-3zm-16-2zm-54 3zm-38-8zm55 20zm1 3zm23-4zm29-6zm0 7zm1-6zm1 6zm1-1zm20-5zm10 2zm-2 11zm-1 1zm-31 4zm-19 0zm-22 3zm8 6zm7 1zm48-6zm9 8zm-25 7z"/>
<path id="h0_9" d="M664 2229zm-16 13zm7-6zm16 5zm27-3zm5 5zm-21 4zm-26-3zm-15 11zm-29-6zm-12 4zm-3 8zm18-2zm18-1zm21 8zm1-10zm55 19zm-5 1zm-9-3zm-22 5zm-68 1zm-32-3zm-8 9zm32 1zm10-1zm16 6zm23-1zm9 0zm22-2zm10-4zm3-4zm27 6zm14 1zm-24 11zm-15-5zm-104 9zm-4-9zm-25 1zm-2-1zm-9 10zm-2-9zm-18-1zm0 6zm-1 2zm-4-9zm7 16zm15 7zm7-6zm40 1zm7 1zm31 2zm79-4zm18-4zm20 4zm9 10zm-33 2zm-3-5zm-13 11zm-19-3zm-21 0zm-15-7zm-7 2zm-63-2zm-17 6zm-55-6zm-12 0zm-25 17zm3 1zm29 2zm59-9zm12 1zm31 6zm4 2zm99-2zm8-2zm9 0zm21-1zm6 5zm-50 4zm-22 4zm-6 1zm-11-1zm-3-1zm-7 3zm-58-6zm-55 6zm0-7zm-24 1zm-36 3zm-15 3zm-82 13zm55-8zm10 6zm34-5zm14 4zm76 1zm26 3zm48 1zm3-1zm3 0zm15-1zm43-2zm8 1zm5 4zm23-1zm3 9zm-36-5zm-20 0zm-14 5zm-20-6zm-22-1zm-71 8zm-42-1zm-37-7zm-3 7zm-67 3zm-17-5zm-9-3zm-12 2zm86 16zm56-7zm31 7zm102 3zm74-7zm13 0zm0 7zm8-11zm-5 23zm-8-1zm-55-7zm-5 6zm-7-9zm-17 7zm-145 0zm-64-1zm-58-3zm-6 7zm0 7zm14 0zm1 1zm0-2zm16 7zm2-1zm0-4zm8 0zm25 2zm111-5zm6-3zm30 7zm25-4zm48 3zm66 2zm36-4zm8 18zm-12-9zm-9 6zm-47-4zm-8-3zm-17 2zm-121 3zm-1 2zm-11-7zm-17 2zm-20 5zm-22-3zm-2 3zm-13-6zm-10 2zm-4 4zm-18 2zm-40-7zm-1 9zm-11-2zm-23-7zm0-1zm-6 22zm125-1zm37 1zm28-7zm22 4zm12 0zm14 3zm1-11zm2 9zm108-4zm24 6zm2-3zm9-3zm19-2zm28 7zm3 13zm-20-9zm-2 8zm-90-2zm-20 3zm-20-6zm-8 0zm-1 6zm-3 0zm-1-3zm-25-3zm-18 5zm-17-7zm-23 4zm-14-2zm-7-1zm-37-2zm-5 0zm-21 3zm-8 3zm-13-3zm-26 6zm-4-7zm-48 4zm61 13zm12-9zm3 3zm24 8zm1-7zm59 5zm8-2zm7-3zm14 5zm13-5zm102 0zm14 1zm80 4zm5-6zm62 0zm-61 12zm-12-1zm0 4zm-2 4zm-24-8zm-20 9zm-2-1zm-5-1zm-2-8zm-31 2zm-30 8zm-31-7zm-1 3zm-37 2zm-2-7zm-45 0zm-11-1zm-5 6zm-20-5zm-46 1zm-5-3zm-5 11zm-36-6zm-32 6zm16 4zm14-1zm19 7zm25 1zm29-4zm23 1zm55 3zm28-10zm12 6zm26 4zm50-10zm32 9zm15 0zm24-5zm31-1zm7-3zm6 1zm72 21zm-68-10zm0 7zm-16-4zm-36-3zm-2 1zm-25 1zm-35 0zm-14 8zm-51 0zm-2-1zm-6 2zm-52 0zm-60-3zm-52 1zm-21-9zm-21 0zm-9 9zm4 6zm38-3zm13 0zm12 0zm3 4zm5 2zm1 2zm23-6zm1 8zm19-9zm20 9zm11-8zm55 7zm55-9zm7 9zm26 2zm15-5zm1-1zm1 5zm18-1zm20-4zm6 0zm8 5zm38-8zm6 4zm35 3zm38-8zm2 13zm-43 0zm-16-1zm-27 0zm-17 10zm-6-5zm-20-2zm-5 1zm-7 0zm-59-1zm0 3zm-2 0zm-1-2zm-110-4zm-10 10zm-33-8zm-90-1zm-4 7zm-2-1zm61 4zm24 5zm41 1zm39 2zm17-3zm2-3zm59-1zm4 3zm2-1zm54-2zm17 7zm24 0zm75-8zm37 1zm20 20zm-19-6zm-24 7zm-60-10zm-16 0zm-1 0zm-15 10zm-10-5zm-25 3zm-2-1zm-8 4zm-13-3zm-15 3zm-59 0zm-41 0zm-71-4zm-4-5zm66 14zm24 5zm42-9zm31 10zm11-2zm20-8zm5 1zm1 10zm28-2zm25-1zm54-4zm28-3zm19 3zm16-4zm21 10zm-20 6zm-5-1zm-9 8zm-5-7zm-42-2zm-11 4zm-2 0zm-15-4zm-16 1zm-4 3zm-77 0zm-34 1zm-10 4zm-61-7zm-12-1zm-10-3zm-35 2zm-19 6zm31 11zm31 1zm26-7zm27 4zm58 5zm25 0zm25-8zm51 5zm11 1zm8-5zm2 5zm48-2zm6 2zm25 1zm-68 13zm-50-3zm-18-7zm-72 2zm-25 8zm-4-1zm-27-4zm-12 2zm-18-5zm-8 3zm-1-3zm-2 9zm-2-8zm-35-2zm-10 3zm-8-1zm-13 0zm6 10zm127 1zm17 5zm30 0zm52 1zm78-6zm1 8zm11-5zm11-1zm23 8zm-6 1zm-36 4zm-49 3zm-22-2zm-39 5zm-27-10zm-33 0zm65 15zm6 5zm25-9zm80 5zm30 2zm5-4zm8 2zm-44 12zm-51-5zm-11 4zm-9 0zm-7 3zm-2 2zm-2-9zm-11 9zm-7-6zm-7 10zm31 4zm14 1zm12-5zm0 6zm6 3zm34-1zm4-4zm34 14zm-25-3zm-5-3zm-11 7zm-9 1zm-31-6z"/>
<path id="h0_10" d="M666 2235zm24 3zm-16 12zm-5 4zm-20-10zm-15 0zm-43 10zm-9 6zm17-4zm42 1zm17 8zm6-2zm3 4zm11-1zm34-8zm-3 14zm-7-1zm-47 6zm-32-1zm-16-5zm-26 7zm-2-1zm-8-6zm-44 17zm54 2zm19-5zm34-2zm30 8zm53-10zm-63 12zm-15 7zm-51-1zm-31 4zm-23-7zm-17 3zm-17 9zm15-3zm25-1zm9 11zm83-6zm12-1zm11-4zm5 4zm77 5zm16-4zm-114 8zm-20 3zm-70 1zm-31 2zm-23-2zm-31 5zm-15 11zm1-2zm7 4zm8-3zm12-5zm25 1zm10 7zm8-5zm9-6zm2 2zm33 2zm21 4zm10-6zm11 7zm52-1zm3-5zm21-2zm35 4zm12-4zm-9 21zm-12-3zm-32-2zm-33-2zm-19 8zm-13-10zm-28 5zm-2 3zm-10 1zm-24-10zm-7 5zm-51-5zm-10 5zm-42-4zm-27 7zm5 5zm16 9zm16-6zm26-2zm1 2zm66 2zm38 2zm16-5zm23 1zm1 4zm20-5zm4-2zm0 6zm11 3zm13 1zm77-1zm-28 9zm-17-3zm-30 7zm-9 0zm-22-2zm-33 1zm-88-9zm-4 6zm-24 3zm-23-6zm-62 4zm-6-3zm-13 14zm52-6zm2 1zm33 5zm10 4zm13-8zm28 0zm39 6zm6-1zm3 3zm16-10zm0 8zm43 0zm27-4zm41 2zm-16 16zm0-4zm-3 4zm-11-6zm-18 2zm-2-7zm-15 10zm-8-1zm-20-7zm-18 5zm-27 1zm-2 0zm-66-6zm-11 6zm-34 2zm-33-7zm-15 5zm-20 3zm1 4zm36-3zm4 1zm41 6zm9-4zm7-1zm29-2zm1 2zm6 9zm92-7zm15 4zm11-1zm42-6zm80 7zm9 9zm-5-3zm-7 1zm-15 4zm-27-5zm-8 4zm-6-1zm-39-5zm-54 4zm-11 6zm-79-5zm-19-5zm-31 4zm-27-2zm-52 11zm14 0zm60 4zm21-3zm34 8zm5-8zm21 4zm9-4zm3 9zm11-7zm96 0zm1-3zm31 5zm31-6zm6 2zm36 0zm5 8zm18-3zm12-1zm-3 9zm-23 1zm-10-4zm-32 4zm-20 4zm-24-5zm-11 4zm-6 4zm-5-2zm-29-6zm-3-1zm-35 8zm-55-3zm-10 4zm-83-1zm-84-6zm37 19zm19-11zm22 10zm99-6zm68-2zm2 3zm5-3zm24-2zm9 2zm27 3zm75 2zm7-2zm0 5zm35-7zm15-2zm40 20zm-12 1zm-9-10zm-3 3zm-48 0zm-28 4zm-3 2zm-71 0zm-18-8zm-29 6zm-2-6zm-8 8zm-14-2zm-54 3zm-12-6zm-76-4zm-55 9zm-3-2zm-38 4zm-4-8zm40 16zm6 0zm14-3zm12 3zm23 3zm6-6zm5 3zm110-7zm32 7zm7 4zm48 0zm22-9zm17 3zm74 3zm47 1zm13-8zm9 8zm7-8zm6 5zm1 1zm8 6zm-35 10zm-1-3zm-2-2zm-31-6zm-3 10zm-43-4zm-35 4zm-42-9zm-61 5zm-26-1zm-1-3zm-42 9zm-100 9zm33-2zm65 3zm7 1zm1-9zm39 4zm31-3zm13 9zm68-2zm12-1zm46-8zm10 1zm3-1zm14 0zm9 0zm57 19zm-14-3zm-44 0zm-3-4zm-29 2zm-77 4zm-36-3zm-3 3zm-31-6zm-75 7zm-57 0zm-22 3zm-2-2zm-5 1zm-5-9zm-11 2zm-48 1zm34 10zm43 5zm14 1zm20-5zm41 3zm46-4zm56-1zm12 5zm21-3zm50 4zm47-3zm20-2zm26 4zm0 3zm2-4zm5-3zm5 10zm14-2zm-37 3zm-17 8zm-36-2zm-21 1zm-27 3zm-34-7zm-20 7zm-10-7zm-29 3zm-17-2zm-40-3zm-13 8zm-53-1zm-7 4zm4 6zm26-4zm32 7zm2-1zm57-7zm7 8zm13 0zm11-1zm20 1zm194-5zm44-4zm-24 12zm-2 11zm-11-10zm-8 8zm-14-3zm-23 1zm-38-5zm-32 0zm-49 6zm-15-3zm-6-5zm-32 6zm-5 3zm-6 0zm-13 2zm-1-11zm-85 10zm-12-8zm2 21zm48-9zm5 3zm8-4zm18 5zm14 0zm3-4zm20 0zm18 8zm9-4zm2-3zm35-1zm25-2zm65 0zm13 2zm20 6zm8-8zm31 1zm33 3zm-13 9zm-57 1zm-14 6zm0-2zm-22 3zm-4-8zm-34-1zm-18 6zm-119 2zm-9-6zm-1 6zm-85 1zm-4 0zm91 3zm26 0zm33 6zm20 1zm19 2zm7-1zm20 1zm123-9zm1 11zm24 8zm-25 0zm-4 3zm-9-1zm-35-6zm-52-2zm-7 5zm-2 5zm-2-10zm-6 4zm-2-5zm-28 7zm-18-2zm-6-4zm90 12zm7 8zm64 0zm30 13zm-43-5zm-19 4zm-16 0zm-49 0zm-20-2zm8 5zm4 5zm25-3zm78-2zm18 2zm0-1zm2 6zm-39 15zm-7-8zm-53 3zm24 14zm13 1zm12-4zm10 4zm1 4zm-50 6z"/>
<path id="h0_11" d="M651 2241zm11 13zm-5 0zm-41-7zm-43 18zm67-9zm19 0zm6 9zm10-5zm25-1zm16 1zm-9 18zm-3-7zm-30 6zm-3-6zm-18 4zm-64-7zm-27 5zm-3 4zm23 9zm44-3zm14 6zm5 0zm13-1zm6-3zm45 6zm14-8zm7 8zm6-6zm-20 8zm-31 7zm-4 2zm-8-4zm-3 2zm-14-4zm-33-1zm-47 3zm-39 5zm-18 7zm52 3zm10-9zm1 3zm31 6zm20 1zm46-9zm23 1zm34-1zm10 3zm3 12zm-8 5zm-24 0zm-21 0zm-17-8zm-15 1zm-2 0zm-18 7zm0 1zm-9-4zm-9-2zm-33 2zm-13-2zm-11 3zm-43 4zm-21-3zm-19 0zm-17-2zm-13 7zm9 1zm2 6zm10-6zm8 0zm27 8zm30-9zm58 0zm16 3zm31 0zm42 6zm20 1zm35 10zm-12-8zm-4 2zm-31-3zm-9 0zm-56 7zm-27 0zm-20-7zm-20 1zm0 8zm0-6zm-122 1zm0-3zm-31 11zm6 1zm64 0zm27 6zm5 1zm132-2zm8-2zm84 18zm-21 0zm-2 1zm-17-3zm-3 0zm-15 0zm-13-2zm-58 0zm-25 1zm-155 4zm-39-8zm26 14zm52 5zm9 1zm18-5zm51 0zm18 1zm26 4zm11-7zm55 7zm31-6zm72-1zm-3 8zm-6 2zm-29-1zm-13 0zm-27 9zm-48-1zm-15 1zm-27 1zm-31-10zm-34 10zm-48-2zm-23-2zm-8-6zm-48 4zm-18 18zm6-6zm17-2zm4 3zm1-4zm32-2zm8 7zm56-2zm35-3zm18 7zm45-8zm1 5zm37-5zm109 0zm2-1zm7 1zm14 5zm1 3zm7 3zm-96 9zm-46-6zm-29-2zm-51 0zm-5 7zm-27 2zm-7-1zm-4 1zm-11-3zm-18 0zm-3-1zm-15 4zm-4-10zm-11 9zm-61-9zm-10 22zm11-6zm63 4zm12-7zm9 9zm75-6zm2 6zm29-7zm32 3zm1-5zm9 7zm1-3zm5 4zm29-5zm60-2zm38 0zm62 19zm-54-3zm-2-1zm-6 4zm-17-3zm-3-6zm-93 4zm-24 1zm-139-4zm-16 2zm-78-2zm-16 7zm1 12zm41-1zm41-5zm38 4zm16 4zm9-7zm37 2zm14 0zm41 4zm27-4zm5-5zm26 10zm9-7zm1-3zm3 5zm146 17zm-3 1zm-15-3zm-3 3zm-28-4zm-30 1zm-25-2zm-74 5zm-28-6zm-37 5zm-9-10zm-17 7zm-63-5zm-13 2zm-15 3zm-10-1zm-9 4zm-30 0zm-11-4zm-4 1zm-10-6zm-5 2zm-15-3zm-10 10zm-11-2zm3 9zm35 5zm42-2zm2-1zm20-6zm3 6zm1 1zm29-4zm18-1zm5 2zm43-1zm18-2zm22 9zm13-8zm18 0zm13 0zm9 5zm2-5zm20 4zm13 2zm36-6zm13 2zm7-2zm25 5zm21-2zm10-2zm45 1zm5 6zm14 4zm-43 5zm-69-7zm-13 5zm-12-4zm-37 8zm-6-4zm-30-3zm-31 5zm-21 0zm-20-8zm-25 8zm-13-8zm-55 6zm-9-6zm-3 3zm-38-1zm-45 5zm-17-4zm-2-1zm-6 4zm27 15zm5 1zm12-4zm44-4zm27 8zm40-2zm99-2zm48 4zm3-9zm1-1zm9 11zm48 0zm11-7zm94 1zm5-4zm2 2zm3 8zm21 11zm-103 1zm-35-11zm-14 6zm-4-5zm-33-1zm-11 6zm-89 4zm-62-5zm-21-2zm-53 3zm-6-4zm-4 7zm-14-9zm-12 4zm-6-2zm56 11zm39 10zm56 0zm33-3zm18-6zm3 6zm42-2zm39-1zm7-2zm35-1zm7 2zm12-3zm4 9zm33-9zm21 3zm21 6zm5 1zm51-1zm14-5zm4 0zm-18 11zm-12 3zm-3 0zm-5-3zm-11 1zm-40 2zm-21 2zm-10-1zm-36 1zm-18 0zm-15-6zm-24 1zm-45 4zm-64 2zm-43 0zm-3-9zm-9 3zm-20-3zm-18 6zm99 12zm21 4zm26-11zm17 0zm30 1zm18 3zm32-4zm3 7zm14-6zm13 4zm21-1zm81-2zm8 3zm13 5zm1-10zm13 23zm-5-10zm-77 6zm-17-2zm-62-1zm-17 4zm-3-4zm-2-3zm-20 8zm-49 0zm-3-7zm-32 0zm-18 2zm-16 1zm-37 3zm-7-8zm-2 5zm-11 9zm20 5zm20 1zm3 3zm19-3zm40-1zm1-6zm18 5zm36 1zm5-5zm18-2zm21 7zm6 0zm3-7zm7 1zm10 4zm33 5zm51-7zm11 5zm9 1zm47 6zm-21-2zm-151 6zm-79-3zm-94 0zm-7 0zm91 11zm78 0zm7-2zm1 7zm94-5zm29-1zm11 0zm8 6zm7-5zm14-2zm5 9zm-38 10zm-22-3zm-20-4zm-4 8zm-14-6zm-45-1zm0-1zm-1 2zm-37 6zm-14-7zm27 19zm1-1zm17-4zm13-3zm23 9zm27-10zm60 9zm-14 13zm-5-2zm-16 1zm-13-3zm-6-1zm-62 0zm-4 3zm27 8zm4 2zm47-2zm12-1zm42-3zm-1 13zm-24 4zm-27 0zm-30 3zm-5 1zm-4-7zm-6 0zm-14 2zm11 11zm2 3zm6-3zm35-1zm36-2zm-26 13zm-3 6z"/>
<path id="h1_0" d="M620 2635zm0 12zm1 0zm10-6zm1 9zm-8 6zm-7 10zm6 0zm3 3zm2-2zm28 20zm-6-9zm0 9zm-1-11zm-3 2zm-9 4zm-4 3zm-5-7zm-9 2zm-5-4zm-1 15zm3 8zm8-6zm12 1zm10 4zm4-10zm4 3zm1 3zm2-1zm-10 18zm0-7zm0-3zm-10 6zm-4 1zm-6-1zm-1-5zm-1-1zm-1 1zm8 17zm9-3zm9-2zm-9 19zm-3-3zm-2-2zm-3-2zm6 16z"/>
<path id="h1_1" d="M621 2630zm-3-1zm6 13zm1 2zm11 10zm-2 9zm0-5zm-16 2zm4 12zm2-4zm8 5zm3-3zm-7 17zm-3-9zm-14 20zm13 1zm2 0zm20 0zm10-6zm-7 9zm0 1zm-22-1zm-9 15zm17-1zm15 8zm-10 7zm-6 1zm-9-4z"/>
<path id="h1_2" d="M619 2627zm17 36zm-1-5zm-4-6zm-1 1zm-5 9zm-2-6zm-1-3zm-2 20zm2-1zm1-8zm3 3zm20 7zm8 10zm-19-5zm-1 8zm-8-9zm-19-1zm13 17zm14-5zm19 6zm-9 10zm-3 2zm-20-7zm-4 16zm20 6zm12 4zm-5 12z"/>
<path id="h1_3" d="M630 2659zm-3-6zm-7 10zm1 12zm-5 22zm25-8zm9 0zm6 1zm0 7zm-16 8zm-9 1zm-2-2zm10 17zm12 0zm-21 9zm3 7z"/>
<path id="h1_4" d="M622 2624zm4 19zm13 14zm-4-5zm-6 13zm10 4zm-25 20zm5 3zm7-3zm3 3zm15 0zm-2 9zm-7 10zm-9-3zm-5-1zm0 12zm0 4zm26-8zm3 4zm-14 5z"/>
<path id="h1_5" d="M617 2647zm12 1zm9 13zm-2 0zm-14-7zm-3 18zm13 3zm13 11zm-16-2zm-1 6zm3 20zm13 8zm-13 14zm9 10zm6-6z"/>
<path id="h1_6" d="M623 2648zm4 7zm-1 17zm2 13zm-2-1zm-10 0zm3 5zm1 8zm31-6zm7 6zm-4 3zm-1 3zm-38 1zm-2 7zm13 3zm3 2zm1 2zm17 14z"/>
<path id="h1_7" d="M631 2651zm1-1zm5 11zm-10-4zm-12 13zm23 26zm14 0zm-28 15zm6 4zm3 8zm1-3zm14-1z"/>
<path id="h1_8" d="M620 2638zm0 5zm6 0zm2 16zm-4 12zm3-7zm-11 14zm21 12zm17 13zm-37 9zm13 0zm20 18zm-12-5zm-3 0z"/>
<path id="h1_9" d="M631 2646zm-14 14zm-1-1zm14 31zm0 6zm20-2zm-35 13zm7 5zm5 2zm14 12zm0 4z"/>
<path id="h1_10" d="M645 2665zm5 34zm-15 7zm-1-2zm18 13zm-8 22z"/>
<path id="h1_11" d="M627 2629zm-4 23zm20 14zm-5 47zm3 34z"/>
<path id="h2_0" d="M863 2709zm-14 8zm3 2zm1 2zm-1 7zm-4 4zm-10-5zm-1 6zm-1-8zm-3 2zm-6 0zm-7 2zm-3-3zm-239 8zm-3-1zm-3 2zm-10-7zm-5 5zm-8 0zm-7-1zm-13 1zm-69 10zm29 4zm2-2zm26 1zm8-9zm3-1zm0 4zm6 2zm2 5zm5-5zm7 0zm6 4zm21-3zm3-7zm2 10zm190-1zm4-2zm11 2zm11 1zm4 1zm2-10zm4 7zm2-4zm0 3zm1 0zm1 4zm1-4zm0-7zm12 10zm3-8zm1 9zm4-2zm2-5zm7 6zm2-2zm3 2zm2-7zm5-2zm4 10zm4 2zm-5 7zm-7-6zm-3 6zm-5 3zm0-5zm-1-4zm-1 5zm-5 1zm-10-6zm-14 6zm-1-5zm-4 4zm-4-5zm-2 5zm-1-5zm-6 9zm-4-3zm-3 1zm-6-3zm0-2zm0-1zm-2-1zm-3 3zm-15-1zm-3 5zm-9-4zm-2 1zm-3 2zm-59-1zm-6-6zm-2 7zm-8 1zm-4-6zm-3-3zm-5 7zm-10 1zm-45-5zm-7-1zm-1 4zm-17 5zm0-2zm-6-9zm0 7zm-10 1zm-3 2zm-11-5zm-10 2zm-1-7zm-3 0zm-3 8zm-1-1zm-2 2zm-7 1zm-1-3zm-4 1zm-3 0zm-3-8zm-5 4zm-2 2zm-4-3zm-7 5zm-1 2zm-2-2zm-2-4zm0 4zm-10-7zm-1 10zm-2-10zm-9 4zm-23 3zm-2-6zm-42 21zm32-1zm0-8zm6 7zm2-3zm2-1zm4 5zm0 1zm7-2zm2 1zm17-5zm2 3zm3-2zm1-2zm3 5zm12-1zm22-1zm0-4zm2 7zm6-10zm6 5zm2-3zm2 4zm2 0zm0-2zm8 3zm1 0zm6-2zm1-5zm3 9zm1-4zm1 2zm4-2zm1 2zm12 4zm3-2zm1 0zm43-2zm32 1zm9 2zm14-9zm1 4zm24 0zm0 0zm18 4zm2 0zm16-7zm3-2zm7 1zm1 6zm5 3zm4-2zm1 2zm3-1zm3-7zm1 2zm1 7zm0-5zm10 2zm1-2zm5-6zm1 7zm0-7zm1 2zm4 1zm3 8zm2-7zm10 7zm0-10zm2 10zm0-4zm0-6zm5 8zm4-4zm1 3zm4 3zm0 0zm24-11zm3 11zm2-7zm1 7zm1-11zm6 10zm1 0zm9 1zm-8 10zm-3-1zm-9-7zm-6 2zm-13 5zm-5 1zm-2 0zm-4 1zm-8-4zm-2-2zm-8 1zm-3 4zm-12-3zm0-5zm-4 0zm-1 8zm0-9zm-14 6zm-2-2zm-2-4zm0 0zm-2 9zm-1-5zm-1 5zm-4 2zm-11-9zm-1 1zm0-1zm-3 0zm-4 2zm0-3zm-12 9zm-3-5zm-15-1zm-4-1zm-5 7zm-10-4zm-1-5zm-5 6zm-8-1zm-22-3zm-7 3zm-6-6zm-1 1zm-8 7zm-8 0zm-10 0zm-12 1zm-2-7zm-10-1zm-5 10zm-2-1zm-9-1zm-11-8zm-13 10zm-5-2zm-9 0zm-1-9zm-5 3zm-3 4zm-13-1zm-1 5zm-7-2zm-4-4zm-3 2zm-7 0zm0-6zm-4 7zm-11-7zm0 5zm-4 2zm-2-5zm-1 6zm-2-6zm-1 2zm-1 6zm-4-5zm-2-5zm-9 3zm0 3zm-2-5zm-12 8zm-1-1zm-1-3zm0 4zm-1-10zm-4 10zm-1-4zm-1-4zm-17 4zm-6-5zm-16 15zm17 1zm1 2zm3 2zm11-9zm7 3zm11 2zm8 0zm0 2zm3-4zm18 3zm0-4zm10 4zm4-6zm18 6zm11 2zm15-1zm8-2zm11-2zm3 6zm2-8zm1 5zm9 0zm10 2zm16-8zm0 4zm8 7zm5-7zm1-4zm7 6zm1-5zm4 9zm0-2zm9-4zm4-1zm0 7zm1-9zm2 1zm6 1zm1 2zm5 2zm12-7zm8 5zm10 4zm42 1zm1-1zm0 2zm2-6zm2 4zm4-5zm1 2zm0 0zm7-4zm14 1zm1 0zm8-3zm9 6zm3-3zm4 0zm2 3zm1 0zm1 0zm1 3zm0-4zm0-5zm5 11zm0-6zm8-5zm2 8zm1 2zm4-5zm1-2zm0-2zm2 8zm3-6zm5 0zm2-3zm2 2zm8 7zm1-1zm1 1zm4-7zm10 2zm11 3zm1-4zm2-3zm5 0zm6 11zm6 10zm-3 1zm-7 0zm-6-1zm0-9zm-7 11zm-16-11zm-5 1zm-1 7zm0-8zm-2 10zm-5-5zm-2 1zm-2 5zm-2-10zm-3 0zm0 6zm-3-5zm-14-2zm-16 10zm0-8zm-2 9zm-15-5zm-1 3zm0-7zm-1 1zm-5 7zm0-3zm0-5zm-1 0zm-4 6zm-2-6zm-2 1zm-1 7zm-17-4zm0 5zm-7-7zm-1 2zm-7 2zm-5-5zm-9 8zm-2-5zm-2 1zm-9 0zm-5-6zm-1 3zm-7-2zm-1 7zm0-1zm-5-4zm-1-2zm0-1zm-8 8zm-9-4zm-5 3zm-4-8zm-1 7zm-1-7zm-13 9zm-4 2zm-12-6zm-11-4zm-22 0zm-4-1zm-4 5zm-1 2zm-3 1zm-2-4zm-10 3zm-3 2zm-25 1zm-59-7zm-25 4zm-3-4zm-1 1zm-2 2zm-30-4zm-11 1zm-2 2zm2 9zm6-1zm4 8zm2-7zm7 9zm1-11zm9 9zm2-8zm8 2zm13 5zm25-5zm15 4zm6 3zm4 0zm3-7zm8 5zm3 0zm12-4zm18 3zm3 0zm5-5zm11 8zm3 1zm3-6zm16 3zm11 3zm13-9zm7-2zm13 11zm1-4zm3-2zm6-3zm10 7zm3 0zm3-5zm1 1zm4 6zm3-10zm1-1zm1 9zm5-7zm2 7zm13-6zm2 8zm9-3zm1-1zm2-5zm1 2zm0 7zm7-3zm3 0zm2 3zm1-2zm1 2zm3-11zm10 8zm3-7zm1 5zm3 4zm5-6zm7-3zm1 9zm10 0zm1-2zm3 2zm3-7zm14-3zm1 10zm5-4zm4 3zm4-8zm10 10zm2 0zm5-8zm0 1zm3 4zm1-2zm8 2zm1-8zm6 6zm3 4zm1-9zm3 4zm3 2zm3 2zm1-3zm1 3zm2-7zm3 2zm10 5zm3 0zm9-4zm-3 15zm-8-5zm-19 5zm-7-7zm-2-1zm-8 6zm-1-2zm0-4zm-7 7zm-2-3zm-1 3zm-11 3zm0 1zm-8-8zm-4 1zm-5 4zm-3-3zm0 6zm0-2zm-1-2zm-6 4zm-2-8zm-7 3zm-1-3zm-3 4zm0-1zm-10-4zm-3 7zm-2-5zm0-2zm-1 8zm-1-4zm0-5zm-9 2zm-2-3zm-3 9zm-3-3zm0 3zm-2 2zm-6-9zm-3 0zm-16-1zm-11-1zm0 5zm-3 1zm-9-3zm0 2zm-1 2zm-4-1zm-14-4zm-2 9zm-1-8zm-2 1zm-1 5zm0-7zm-1 4zm-2 5zm-14-7zm-1 4zm-4-2zm-1 1zm0-7zm-10 7zm-6 2zm-23-9zm-16 11zm-2-6zm-3 0zm-2 2zm-1-3zm-3-1zm-5 0zm-2 0zm-8 2zm-9 5zm-15-5zm-5 5zm-2-4zm-8-4zm-7 7zm-16-7zm-3-1zm-8 8zm-11-8zm-3 8zm-17-7zm0-1zm-17 0zm-10 4zm-2 4zm-2-2zm-7-6zm-1 1zm-2 4zm0-6zm-1 1zm-1 1zm-1 8zm8 2zm10 4zm9-3zm10-1zm5 8zm7-5zm0-2zm12 9zm8-4zm6-1zm2 2zm1-1zm2-3zm3 2zm4-2zm8 7zm9-9zm3 4zm3-5zm3 0zm9 11zm9-5zm2 2zm3-8zm1 8zm1 0zm9 3zm14-5zm3-5zm2 2zm10 4zm4 0zm4 1zm0 1zm23-5zm2 0zm15 3zm7 1zm1 0zm5-7zm3-1zm7 8zm1 3zm5-4zm8-7zm2 3zm4 5zm13-3zm6 0zm13 6zm0-10zm1-1zm1 9zm1-3zm5 3zm2-3zm9 5zm1-1zm6 0zm0-7zm1 3zm0 4zm2-3zm10 2zm3-9zm13 8zm1-1zm1-5zm4 0zm1 2zm3 3zm3-3zm8-3zm5 2zm3 6zm8-5zm8 6zm3-3zm1-4zm2-3zm3 4zm4 4zm5-8zm3 8zm5 1zm10 2zm2-9zm0 5zm2-1zm1-4zm7 9zm1-10zm2-1zm2 4zm3 4zm1 2zm5-8zm9-1zm4 4zm-20 15zm-2-5zm-8 1zm0 4zm-1 0zm-3-3zm-9 5zm-1-9zm-6 1zm-7 5zm-2 3zm-1-1zm-7-7zm-3 8zm-3-3zm-4-2zm-2-3zm-1 0zm-5 8zm0-10zm0 0zm-1 3zm0 1zm-2 5zm0-6zm-1-3zm-5 3zm-1 1zm-1 1zm-1-3zm-4 9zm-5 0zm-1-8zm-4 5zm0 3zm-2-3zm0 1zm-4 0zm0 1zm-9-6zm-6 6zm-3-9zm-13 5zm-1 5zm-8 0zm-2-1zm-2-5zm0 4zm-8 1zm-4-7zm-2 0zm-1 1zm-3 3zm-3-4zm-1-3zm0 11zm-1-7zm-4 3zm-7-2zm-1-1zm-12 5zm-5 1zm0-1zm-6-9zm0 1zm-1 4zm-5-1zm0 1zm0 5zm-5-5zm-2-4zm-1-1zm-4 1zm-4 6zm-2 0zm-1-1zm-2 3zm0-8zm-2 2zm-3 5zm-1-1zm-10-6zm-2 4zm0-3zm-4-2zm-3 11zm-3-9zm-7 2zm-4-3zm-7 8zm-2 2zm-3 0zm-1-1zm-10-9zm-7 1zm-6-1zm-9 3zm-15 3zm-12-5zm-2 2zm-19-3zm-8 3zm-18 5zm-7-2zm-2-1zm0-4zm-3 6zm-10 3zm-2-1zm-18-10zm-2 11zm-3-9zm-11 2zm-3-2zm-2 5zm-1-3zm-3-1zm-3-3zm11 15zm6 3zm18-6zm12 7zm5 0zm0-7zm9 11zm3-1zm27-2zm4-2zm5 2zm1-3zm2-4zm6 5zm0-3zm20 2zm3-3zm3 9zm0-10zm1 10zm2-11zm7 0zm5 3zm5-1zm15 5zm13-2zm6 3zm2-8zm6 2zm2-1zm6 5zm1 1zm2 2zm1 1zm8 0zm23-3zm5-7zm2 5zm6-3zm7 7zm4 0zm4-2zm5-3zm2-1zm1 8zm4 0zm7-1zm3-1zm0 2zm6 0zm2-1zm0-4zm1-4zm1 9zm8-8zm4 1zm3 7zm10-9zm7 8zm2-9zm2 8zm9 0zm7-2zm6 3zm8-7zm5-1zm1 0zm0 3zm7 6zm4-3zm3-7zm5 7zm2 1zm15 1zm0 0zm4-3zm6-3zm8 3zm1-4zm5 8zm0-4zm8 4zm0-11zm6 4zm1 5zm6-2zm12 9zm-22 0zm-7 3zm-5-4zm-7 8zm0 0zm-2-3zm-3-2zm-3 2zm-6-7zm-2 2zm-7-3zm-5 10zm0-2zm-5 3zm-1-11zm-3 1zm0 7zm-2-5zm-1 3zm-5 5zm0-8zm-5-3zm-6 4zm-8 5zm-4 1zm0-9zm-5-1zm-1 6zm-10 5zm-1-7zm-2-2zm-2 5zm-7-1zm-4-5zm-3 1zm-3-2zm-1 8zm-2-8zm-5 10zm-4 1zm0-1zm-2-8zm-15 1zm-9 0zm-2 1zm0 4zm-8-7zm-4 0zm-6 5zm-1 0zm-2 1zm-3-3zm-1 7zm-2-3zm-1-3zm-4 3zm-11-1zm-1-5zm-1 0zm0 5zm-5 2zm-1-5zm-9 2zm-3-5zm-11-1zm-4 7zm-3 3zm-1-10zm-12 6zm-2-6zm-10 1zm-2 4zm-4 5zm-7-3zm-11 1zm0-3zm-5 0zm-14-5zm-1 3zm-15 3zm0-5zm-1-1zm0 10zm-6-7zm-1 6zm-9 0zm-7-6zm-2-1zm-8 1zm-4-1zm-2 5zm-6-7zm-2 8zm-2-1zm-26-7zm39 13zm1 9zm19-4zm5-5zm11 2zm19-3zm7 7zm7-5zm9 0zm19 1zm0 7zm13 0zm1-6zm0-1zm1-2zm3 0zm1 9zm10-7zm0 3zm0-2zm1 1zm9-4zm2 0zm1-1zm3 3zm4 8zm1-11zm2 4zm6 7zm3-4zm0 3zm1-4zm5 4zm0-2zm6-3zm1 6zm2-6zm15 4zm1-7zm1 6zm10 0zm0 1zm0-7zm1 2zm0 5zm3-7zm4 7zm1-4zm0 0zm2 4zm9 2zm8-6zm9 4zm0-9zm6 11zm2-4zm1 0zm2 2zm1-4zm4 5zm0-7zm3 7zm0-2zm12 0zm2 3zm5-3zm1 3zm2-2zm1-4zm2 1zm2 2zm2 2zm4 1zm9-5zm1 5zm2-1zm8-3zm7-3zm2-2zm7 8zm7-9zm6 1zm1 5zm1-6zm5 5zm14 2zm5-5zm1-3zm0 10zm-6 9zm-15 0zm-3-6zm-10 7zm-6-2zm-1 5zm-7-3zm-2 3zm-7-3zm-5-8zm0 11zm-6-2zm-3 0zm0-9zm-7 5zm-4-3zm-4 6zm-6 2zm-1-10zm-8 8zm-2-7zm-9 5zm-2-2zm-3 7zm-1-4zm-3 4zm-4-6zm-1-2zm-11-3zm0 10zm-3 1zm-1-11zm0 6zm-4 0zm-1 3zm-1 0zm-1-2zm-1-3zm0 4zm-23 3zm-2-3zm-6-5zm0 7zm-2-6zm-11 2zm-6-3zm0 6zm-1 2zm0-2zm-1 1zm-11-3zm-2 2zm0 2zm-10-4zm-7 0zm-5-4zm-1 8zm-1-9zm-2 3zm-13 6zm-5-10zm-13-1zm-44 6zm-12 4zm-2-9zm-8 7zm-8 0zm-2 0zm-3-8zm20 13zm2 0zm74-1zm2 1zm8 2zm4 5zm10-5zm6 3zm5 4zm1-1zm4-5zm1 6zm2-5zm6 2zm2-1zm2-6zm1 9zm0-4zm6 1zm10-5zm4 8zm2 1zm11-3zm2-3zm1 7zm4-7zm3 4zm0-1zm2-4zm1 2zm0 5zm6-2zm1-7zm1 8zm1 1zm3-2zm1 2zm3-5zm4-3zm8 8zm3-9zm0 7zm1-5zm0-2zm9 2zm3 8zm2 0zm1-11zm2 9zm4-1zm4-5zm7 7zm3-3zm9-2zm3 2zm0-3zm2 6zm4 0zm3-6zm0 5zm7-6zm10 1zm3-4zm4 2zm0 0zm4 7zm2 0zm4-8zm0 10zm3-6zm5 2zm1 0zm5-2zm3 1zm11-5zm1 13zm-5 5zm-4-4zm0 6zm-2-9zm-4 2zm-5-2zm-12 6zm-1 4zm-3-10zm-5 1zm0 4zm-1 3zm-2-2zm0 5zm-1-6zm0 1zm-6-2zm-14-2zm-5 1zm-4 5zm-8-8zm-4 11zm-2-8zm-3 3zm0-6zm-7 5zm-5-3zm-1 3zm-3 2zm-9-4zm0-1zm-6 3zm0-3zm-5 9zm-2-11zm-1 1zm-2 0zm-19 6zm0 3zm-2-3zm-2 2zm-3-4zm-2-3zm-8 2zm-13 0zm-4-2zm-5 2zm-4 3zm0-5zm-4-2zm-6 3zm-6 8zm-1-2zm0-6zm-1 5zm-5-1zm-1 1zm-3 0zm0-4zm-2 0zm-2 7zm0-1zm-1-6zm-13 2zm8 12zm6-4zm1 6zm13-7zm7-1zm6 5zm0-5zm1 4zm2-1zm1 4zm3 1zm1-3zm0 6zm1-7zm1 2zm1 3zm10-3zm4-4zm8 5zm1-2zm5 3zm4-6zm1 4zm2 3zm1-8zm4 0zm7 1zm2-1zm2 5zm2 3zm2 0zm3-6zm4-1zm1 3zm2-2zm2-2zm3 0zm0 9zm2-5zm1 0zm1 6zm5-2zm2-9zm1 10zm1-5zm4 4zm1 2zm0-1zm1-1zm4-3zm0-1zm7-4zm0 9zm4-3zm0 1zm8 3zm7 0zm3-4zm2-5zm5 5zm4 2zm4-2zm1-7zm5 8zm6-4zm2 5zm3-3zm4 2zm7-1zm3-1zm5-1zm1-1zm3-2zm1 0zm6 1zm0-3zm-7 19zm-1 1zm-3-1zm-5-5zm-3 7zm-1 1zm-2-3zm-2 2zm-4-1zm-4 2zm-1-10zm-1 10zm-3-5zm-14 1zm-2 5zm-2-9zm-1 0zm-2 8zm-2-3zm-7 0zm-1 2zm-5-2zm-4-3zm-2 3zm-1-7zm-3 2zm-18-2zm-5 7zm-1 2zm-2-7zm-1 7zm-3-9zm-3 6zm-11-2zm0 4zm-9-6zm-4 2zm-4 0zm-24 7zm-1-9zm-7 7zm-6 2zm-5-1zm-3 1zm-2-7zm-9-1zm-3 7zm-6-1zm0-6zm-5 7zm-2-3zm-1-2zm-6-3zm-3-1zm14 16zm3-3zm5-1zm2 8zm13 2zm5-10zm12 6zm6 4zm4-7zm8 6zm2-5zm3 5zm0-1zm3 2zm1-5zm11 5zm0-3zm5 3zm8-5zm2 0zm2 2zm0 2zm3-2zm1-8zm3 4zm3-3zm5-1zm5 9zm5-3zm3 1zm3-3zm2 3zm0 1zm1-5zm2 7zm6-3zm12-4zm8 4zm4-1zm1 1zm1 4zm7-10zm7 3zm1 4zm3-3zm6 3zm0 0zm2-1zm1-5zm3 6zm11-2zm-6 11zm-2-2zm-10-1zm0 0zm-14 5zm-6 4zm-1-8zm-1 0zm-6 6zm0-7zm-3 8zm-1-2zm-4-1zm-3-5zm0 1zm-2 7zm-3-6zm-2-1zm-6 4zm-3 2zm-13 0zm-3-8zm-6 7zm0 2zm-12-9zm-5 6zm-2-4zm-1 1zm-5-4zm0 3zm-2 5zm-4 1zm-1-5zm-7-1zm-4 3zm-16 5zm-8-9zm-5 0zm-2-1zm-2 3zm-9 7zm-1-10zm-4 2zm-1-3zm-2 9zm-2-7zm-3 4zm-3 5zm-2-4zm-3-7zm4 18zm7-6zm6 11zm7-11zm6 3zm7 5zm4 3zm1-5zm1-6zm8 7zm4 4zm14-5zm2-3zm1 6zm0 2zm2-9zm2 9zm3-1zm1-1zm4-2zm2-4zm1 0zm2 7zm1-4zm11 5zm13-6zm10 3zm7-4zm1 4zm4-7zm3 10zm2-5zm5-4zm8 3zm1-2zm1 3zm4 1zm1-6zm4 6zm12-7zm3 11zm-8 2zm-7-1zm-6 0zm-2 5zm-4 0zm-4 1zm-5-5zm-3 1zm0 9zm-7-5zm-3 4zm-1-3zm-2-4zm-6 2zm-1-1zm-2-3zm-6 3zm0 0zm0-3zm-1 1zm-5-2zm0 6zm-2-2zm0-1zm-6 1zm-17 1zm-2 5zm-3-7zm-1 6zm-13-9zm-4 7zm-1 1zm-1 3zm-7 0zm0 0zm-8-3zm-1-7zm-6 10zm-10-3zm-1-3zm-2-5zm0 3zm-1 0zm8 12zm6 1zm2-3zm3 8zm1-7zm10 0zm65 2zm7-2z"/>
<path id="h2_1" d="M858 2710zm-46 11zm20-6zm21 6zm7 1zm-5 9zm-1 2zm-19 1zm-2-5zm-15 6zm-21-3zm-216 2zm-8-1zm-24 2zm0 0zm-43 10zm18-4zm23-1zm5 6zm3 0zm3-2zm6-1zm4 1zm6 0zm24 3zm30-3zm114-7zm25 5zm7 4zm1-3zm7 0zm3 3zm0-2zm3-5zm0 4zm3-7zm2 6zm9-4zm3 3zm3 4zm2-2zm3 1zm3-2zm0-6zm10 0zm4 9zm1-2zm0-2zm1 5zm3-7zm6 8zm1 0zm6-2zm10-4zm-3 11zm-2 2zm-4-4zm-3 5zm-9 0zm-2-1zm0 3zm-3-8zm-8 8zm0-1zm-3 0zm-9 2zm-1-10zm0 0zm-8 1zm-1 0zm-1 5zm-7 2zm0-6zm-4 3zm0 6zm-1-11zm-2 6zm-3 5zm-7-4zm-1 4zm-5-7zm-9 3zm-2-6zm-6 4zm-1-2zm-79 5zm-1-4zm-15 5zm-13-1zm-28 3zm-10-6zm-13-1zm-4-3zm-6 7zm-10-7zm-11 3zm-3 5zm-6-7zm-21 7zm-4-9zm-1 0zm-12 3zm-2 1zm-10-3zm-1 7zm-6 3zm-3-8zm-9 0zm-2 3zm-2 4zm-3 1zm-4-3zm-1-7zm-1 3zm-18 2zm-1-2zm-3 1zm-2 0zm-1 4zm-33-2zm-28 15zm12-1zm19-1zm5-7zm4 2zm16 8zm0-7zm2 2zm9 3zm11-4zm31-1zm2 2zm16-3zm2-1zm0-1zm14 4zm5 1zm12 3zm7-4zm2-4zm33 1zm10-2zm2 7zm2-7zm0 5zm3 3zm4 0zm15-5zm4 5zm5-4zm15 1zm18 3zm9 3zm5-5zm7-1zm3 3zm5-4zm3 5zm1 2zm1-7zm23 2zm5 3zm0-3zm1 5zm7-10zm7 2zm6 8zm2-2zm0-2zm3-1zm0 0zm10 4zm0-8zm11 5zm0-5zm3 3zm3 1zm2 4zm2-9zm3 3zm20 7zm1-5zm3 0zm1 1zm4 2zm2-8zm1 6zm12-7zm5 1zm4 5zm1 1zm4-1zm4-2zm2-2zm0 6zm6 0zm-11 13zm-21-1zm-1-3zm-5-5zm0 2zm-3 3zm-14 4zm-8 0zm0-3zm-3-6zm-3 5zm-4 4zm-6-9zm0 0zm-1 8zm0-4zm-2 2zm-1-2zm-7 7zm-3-2zm-1-7zm-3 5zm-3-7zm-3 1zm-1 1zm-10-1zm0 2zm-12 2zm-21-2zm0 3zm-3 5zm-15-6zm0-4zm-3 5zm-16 4zm-23-7zm-17 5zm-13 2zm-1-9zm-2-1zm-11 9zm-25 1zm-2-10zm0 7zm-2-6zm-13 2zm-3-1zm-5 7zm-1 0zm0-5zm-19-1zm-3-3zm-2 0zm-3 4zm0 0zm-5 3zm-1-3zm-1-3zm-4 6zm-17-2zm-5 2zm-41-7zm-8 0zm-9 4zm-2-1zm-1 4zm-13 1zm-4 3zm-3-11zm-6 4zm0 7zm-10-1zm-2-1zm-9-2zm-8 2zm1 10zm7 0zm9-1zm39 0zm2-5zm0 9zm11-9zm11 3zm0 0zm6-2zm7 9zm43-9zm6 6zm1-8zm15 6zm3 2zm6-6zm12 3zm11 0zm17 3zm3-2zm4-2zm1-1zm0 7zm5-1zm3-4zm3-1zm3 5zm2-1zm0 0zm3-4zm10 3zm15 0zm1-1zm4 5zm53-2zm6-4zm3-2zm1 5zm4-7zm2 7zm2-5zm1 4zm3 2zm4-7zm1 6zm8-7zm12 10zm5-5zm2-5zm2 4zm3 4zm1-3zm6 1zm2 0zm5 3zm12-3zm2-5zm1 6zm2-1zm4-1zm3 5zm4-4zm2-3zm2-1zm3 3zm1-4zm5 0zm1 4zm4-2zm4-1zm5 6zm1-9zm2 8zm1 2zm6-6zm5 10zm-8-1zm-1 9zm-2 0zm0-5zm-3-1zm0-2zm-6 2zm-7 7zm-3 0zm-1 0zm-18-10zm0 10zm-3-2zm-13 1zm-28-8zm-4 5zm-8 0zm-5 0zm-1 4zm-2-9zm-5-1zm0 6zm-9-6zm-2 5zm-14 5zm0 0zm-11-5zm0 1zm-8 4zm-11-3zm-23 1zm-6 2zm-2-3zm-8-4zm-7 1zm-4 2zm-8-5zm0 4zm-6 2zm-51-8zm-3 2zm-5-2zm-1 11zm-12-2zm-14-9zm-16 9zm-7-1zm-58-7zm-9 1zm-6-2zm-15 6zm-5-6zm-12 4zm-12-1zm-4 13zm16 0zm2-4zm8 9zm5-2zm16 0zm17 0zm11 4zm13-11zm8 6zm26-6zm4 0zm7 1zm1-1zm2 9zm42-4zm11 1zm50-1zm2 6zm1-6zm14 2zm1 2zm9-2zm3-2zm5-4zm3-1zm2 9zm6-7zm6 7zm1-1zm4 2zm1-10zm5 9zm7-3zm3-5zm2-1zm5 5zm2 1zm4-1zm3-4zm1 6zm4-2zm10-5zm3 11zm4-6zm2-2zm3 2zm1-4zm0 1zm4 4zm0 4zm6-5zm1-3zm1-2zm2 3zm5-1zm4 1zm8-1zm4 9zm0-3zm7-5zm2 4zm1-1zm1-1zm4 1zm2-6zm15 9zm2-9zm4 9zm9-9zm1 8zm0 0zm9-7zm0 6zm11 16zm-2-8zm0 1zm-8 5zm-4 0zm-14-1zm-6-2zm-2 2zm-3 1zm-5-5zm-3-3zm-4-1zm-5 3zm-8 7zm-2-7zm-3-1zm-1 2zm-1 0zm-3-4zm-1 3zm-7 2zm-1-2zm-15 1zm-7 2zm-17 3zm-3-9zm-11 5zm-1-5zm-1 3zm-1 7zm-4 1zm-4-10zm-7 7zm-7-3zm-6 5zm-3-2zm-7-3zm-6-4zm-4 9zm-1 1zm-9-7zm-1 4zm-4-4zm-3-1zm0 3zm-3-5zm-4 0zm-8 10zm0-10zm-18 2zm-6 8zm-38-11zm-3 6zm-3 1zm-4-5zm-22 5zm-20 0zm-17-1zm-7-2zm-8 6zm-4-4zm0 3zm-8-3zm-2 0zm-7 5zm-14-7zm0 7zm0-3zm-45 0zm-11-1zm-5 3zm-2 2zm0 0zm4 0zm2 5zm15-3zm8 2zm1-2zm16 2zm8 0zm5 2zm5-3zm4 5zm8 0zm5-8zm12 1zm14 8zm19-9zm0 0zm7 10zm4-5zm3 0zm2 3zm3-5zm14 7zm3-3zm1-7zm4 0zm11 4zm7 6zm9-2zm2-1zm0-2zm4 2zm1-7zm7 3zm0 1zm4 3zm15 4zm6-1zm3 1zm4-5zm2-2zm1 2zm5-4zm2 9zm0-7zm3-4zm1 6zm3 0zm3 5zm1-3zm3-8zm2 11zm0-11zm6 2zm3 7zm9-2zm9-7zm3 0zm1 3zm2-3zm8 7zm12 1zm0-8zm2 3zm1 0zm10 8zm5-3zm7 1zm7-6zm6 7zm2-1zm17-3zm1-3zm3 5zm4 3zm2-10zm1 4zm9 1zm5 0zm2 3zm7-4zm2 5zm1-2zm6 2zm1-3zm3 3zm1-8zm4 6zm3-5zm9 4zm0-3zm2-4zm2 4zm6 0zm1 2zm1-5zm0 4zm10 3zm6 4zm-1 2zm-2-2zm-11 1zm-3 10zm0-9zm-9 9zm-3-2zm-12 1zm-8-4zm-12 3zm-1-8zm-36 10zm-18-5zm-11-2zm-1 4zm-4-1zm-18-2zm-2 5zm-5-6zm0-1zm-1-3zm-2 2zm-2 9zm-1-2zm-10-4zm-5-3zm-5 7zm0-4zm-6-3zm-4-2zm-10 1zm-7 2zm-3 8zm-2-10zm-2 2zm-15 0zm0 6zm-9 0zm-2-8zm0 6zm-1-7zm-15 1zm-4-1zm-5 10zm0-1zm-6-2zm-1-2zm0 5zm-3-4zm-14 1zm-11-6zm0 1zm-2 3zm-2-2zm-2 6zm-6-4zm-24 3zm-16 1zm0-1zm-4 2zm-8 0zm-7-2zm-8-1zm-3-1zm-12-4zm-3 2zm-12 6zm-1-6zm-16 7zm-14-9zm4 13zm3 7zm9-7zm15 8zm1-7zm6 5zm5-7zm18 7zm0-5zm3-4zm3 5zm2-5zm5 5zm1-1zm8-3zm15 8zm1-3zm4 1zm1 4zm1-5zm13-6zm2 2zm5-2zm1 8zm22-1zm23-6zm1 6zm26-6zm1 2zm3 7zm1-7zm8-3zm5 11zm1-10zm10 9zm10-6zm1 3zm1-1zm1-4zm9 2zm9 7zm13-3zm1-8zm3 4zm3 0zm3 6zm3-4zm17-2zm8 1zm22 4zm1-2zm0 0zm1 2zm5-6zm9 7zm8-2zm3-6zm3-1zm5 10zm3-4zm7-1zm1-1zm6 0zm2-2zm3-1zm0 4zm8 4zm14-4zm2 2zm6 0zm4-3zm1-2zm1 6zm1-9zm4 2zm4 6zm0-3zm-29 11zm-1 4zm-5 2zm-1-1zm-6-6zm0 3zm-8-3zm-1 8zm-10-2zm-9-6zm-2 4zm-1-5zm-2 2zm-1 0zm-9 6zm-10-3zm-8-7zm-3 6zm-8-3zm-4 8zm-1-3zm-3-8zm-1 5zm-6 5zm0-10zm0 0zm0 3zm-5-2zm-1 5zm-1 4zm-3-9zm-2 4zm-5 5zm-1-4zm-10 2zm-7-2zm-3 5zm-10-1zm0-2zm-2-1zm0-1zm-3-1zm-2 0zm-5-4zm-7 10zm-6-8zm-13 0zm-2 4zm-2-1zm-20-2zm-8-3zm-1 0zm-9 4zm-19 4zm-3-7zm-5 7zm0-7zm-10 1zm-2 5zm-34-1zm-10 3zm-1 1zm-17-8zm-16 8zm-7 0zm-12-8zm-7 1zm20 9zm11-1zm13 6zm2 0zm12 2zm1-6zm1 9zm11-11zm3 3zm11 5zm9-8zm12 0zm13 5zm13-1zm5-1zm18 4zm1-7zm19 4zm3-4zm2 0zm5 2zm0-1zm1-1zm0 5zm1 0zm3-3zm8 4zm6 3zm2-5zm12 0zm3-2zm0 9zm12 0zm3-10zm0 8zm10-2zm1 4zm0-8zm6-3zm5 5zm2 6zm5-5zm8-1zm2 6zm4 0zm7-6zm6 5zm1 0zm5-3zm1-4zm0 6zm5-5zm6 4zm30-4zm10-3zm3 4zm0-3zm9-2zm9 8zm1 2zm8-10zm0 5zm7-3zm-14 20zm-14-9zm-5 5zm0 0zm-3 1zm-4 4zm0-11zm-4 8zm-12-5zm0 8zm-1-6zm-4 1zm0 4zm0 0zm-1-1zm-2-7zm-6 6zm-4-1zm-4 3zm-3-1zm0-8zm-1 4zm-8-4zm-11 7zm-4 3zm-5-9zm0 9zm-1-9zm-4 1zm-2 7zm-1-8zm-1 2zm-2-4zm-11 9zm-1-8zm0 0zm-3 8zm-1 2zm-5-4zm0-5zm-7 3zm-9-1zm-3 0zm0 6zm-28-10zm-2 2zm-1 7zm-3-5zm-1-2zm-5 6zm-5 1zm-4-8zm-2 7zm-1-5zm-5-3zm-4 4zm-1 5zm0 1zm-13-5zm0-4zm-7 9zm-11-5zm-2 5zm-10-5zm-59-2zm-19 5zm93 12zm7-1zm7-7zm0 4zm8-4zm7 6zm5-2zm14 5zm2-2zm4-7zm2 2zm8-1zm2-1zm4 6zm1-1zm6-5zm2 0zm1 0zm5 5zm4 5zm6-2zm0 2zm1-2zm9-6zm1 1zm1 2zm0-1zm2 0zm14-3zm8-1zm6 1zm3 0zm9 9zm1-10zm9 0zm1 0zm8 4zm6 3zm1-3zm4 4zm0-5zm7-1zm2 6zm6 2zm0-2zm1 0zm8-5zm0-3zm1 4zm9 7zm3-8zm5 5zm3-2zm3-2zm1-2zm2 8zm4-6zm5 3zm2 2zm1 14zm-5-6zm-8 0zm-20-2zm-9 5zm-3-3zm-5-3zm-2 6zm-21-6zm-5 8zm-3-6zm0 4zm-3 3zm-1-7zm-5-3zm-2 0zm-3 9zm-2 0zm-3-6zm-17 4zm0 3zm-8-8zm-4 8zm0-5zm-6 5zm-3-5zm-3-2zm-2 7zm-1-8zm-1 0zm0 1zm-1 6zm-8-6zm-10 6zm-1-7zm-1 3zm-2 2zm-3-8zm-2 8zm-14 2zm-20-8zm-4-2zm-2 5zm-3 1zm-2-5zm-4 4zm-1 3zm-6-3zm6 15zm8-6zm0 6zm2-4zm4 1zm4-1zm9-2zm2 2zm4-3zm3 6zm4-1zm1-1zm2 1zm14 1zm0-2zm2-1zm9-1zm1 7zm10 0zm2 0zm9-6zm4 5zm4 1zm1-8zm15 9zm4-3zm13-6zm6 6zm9 2zm9 1zm9-4zm13 3zm0 1zm3-3zm7-7zm11 0zm2 9zm2-1zm5-6zm1-3zm6 2zm5-2zm0 2zm9 3zm1 12zm-6-1zm-2-4zm0 3zm-3 2zm-1-2zm-3 1zm-11 7zm-1-9zm0 5zm-5 0zm-2 0zm-2-4zm-3 2zm-6-5zm-4 9zm-1 2zm-1-1zm-4-1zm-1 2zm-3-6zm-3-2zm-10 7zm-1 1zm-1-11zm-5 4zm-1 6zm-1 1zm0-5zm-8 1zm-8-5zm-4 2zm-5 0zm-2 6zm-1-5zm-8 1zm-7-4zm-5 0zm-13-2zm0 4zm-3 4zm-6-4zm-3-1zm-3 6zm-9-1zm-10-1zm-6-4zm-1 6zm-8-9zm-3 2zm-3 5zm0 1zm-12-5zm-3 1zm-8 7zm2 7zm20 5zm2-6zm0 0zm2-4zm3 8zm6-5zm0-3zm1 4zm4-2zm9 3zm0-2zm1 3zm4-7zm13 9zm0-2zm4 1zm1-4zm1 3zm0 1zm1-1zm2-3zm1-1zm6-1zm6 5zm4-6zm2 6zm19-4zm2 7zm7-10zm15 1zm25 4zm8 1zm7-6zm1 9zm1-2zm9 0zm9-5zm0 3zm16-5zm-24 14zm0-2zm-9 8zm-1-7zm-6-1zm-4 4zm-2 7zm-4-2zm-4-8zm-14 10zm-9-10zm-2 7zm0 1zm-3-3zm-5 4zm0-1zm-14-1zm-13 0zm-1-3zm-5 1zm-1 0zm-2 2zm-1 3zm-3-11zm-6 1zm0 3zm-1 7zm-3-8zm0 6zm-4 2zm-10-7zm-3 6zm-3-5zm-5 0zm-4-1zm-11 4zm-1 3zm-1-11zm-3 9zm-4-8zm-2 4zm-3 4zm-1-2zm-4 3zm5 9zm5 2zm2-4zm1-2zm2 8zm6-2zm2-4zm2 4zm5-5zm9 6zm9-7zm15 8zm0-6zm2 2zm1-3zm1 3zm1 3zm3-5zm7-4zm2 1zm1 1zm11-2zm1 8zm2-2zm9-2zm3 2zm10 3zm9-9zm6 4zm1-3zm1-2zm2 5zm2-5zm26 3zm3 2zm-21 12zm-3 1zm-1 1zm-10-4zm-5 0zm0-1zm-1 2zm-6 7zm-2-2zm-6-5zm-5-4zm-4 11zm-2-8zm-7 1zm-1 0zm-2-4zm-5 0zm-3 5zm-2 5zm-5-7zm-8-1zm-1-2zm-2 2zm-2 4zm-9 3zm-2-6zm-7-3zm-8 4zm-2 3zm-3 1zm-14-5zm-5 2zm-5-5zm16 13zm0 1zm2 0zm1-2zm5 2zm14 4zm1-4zm7 2zm6-2zm6-2zm25 0zm18 1zm1 6z"/>
<path id="h2_2" d="M841 2717zm9 4zm0 12zm-12-8zm0-1zm-13 1zm-5 3zm-9 5zm-250 0zm-4 0zm-1-3zm-15 3zm-87 13zm6-6zm9 2zm48 5zm3-6zm6 5zm17-8zm18-1zm3 1zm20 6zm1-5zm189 8zm5-7zm2-2zm2-1zm29 3zm3-2zm1-2zm1 2zm5 2zm8 1zm3 2zm6-3zm1 5zm2 1zm12 0zm4-10zm0 8zm3 12zm-18-5zm-4-1zm-13 1zm-16 2zm-12 4zm-2 0zm-1-2zm-15 3zm-1-10zm-3 7zm-4-5zm-7 6zm-6-3zm-6 5zm-13-4zm-3 4zm-61-2zm-19 1zm-5 0zm-54-2zm-2 0zm-11-5zm-4 8zm-9-5zm-5-3zm-4 2zm-17 5zm-1-8zm-7 2zm-6 0zm-9-2zm0 7zm-22-2zm-31 2zm-1-8zm-9 3zm-60 7zm-1 10zm0-2zm9-4zm7 2zm2 4zm22-5zm4 0zm13 6zm4 0zm10 2zm3-4zm2-4zm16 7zm4-9zm4 2zm5-1zm8-1zm14 5zm12 0zm7 0zm11 3zm21-6zm1 4zm4-6zm16-1zm1 9zm19-8zm5 1zm10 7zm19-1zm26-4zm9 5zm1-4zm43 3zm1 0zm8-7zm6 6zm6 4zm8-5zm5 1zm6-4zm1 3zm3 4zm2-7zm10-1zm2 8zm0 1zm16-4zm0-5zm2 3zm13 3zm1-5zm1 0zm1 7zm3-8zm6 7zm6-5zm2 4zm6-6zm8 8zm-12 2zm-15 10zm-2-8zm-8 4zm-2 0zm-12-3zm-3 1zm-5 3zm-6 0zm-7 2zm-12-1zm-1-4zm-11 4zm-13-4zm-1 2zm-2 3zm-21-7zm-20 9zm-2-8zm-4 2zm-40 3zm-29 3zm-38-1zm-4-2zm-13 1zm-1-2zm-5-6zm-1 7zm-10-8zm-2 9zm-3-3zm0 1zm-8 4zm-2-1zm-14-8zm-12 4zm-1 3zm-4 2zm-23-5zm-24-6zm-10 11zm-5-10zm-9 5zm-5-3zm-1 6zm-3-5zm-4-1zm-3 4zm-21 1zm-7 3zm-6-5zm-4 12zm9-3zm2-1zm14 7zm1-3zm1-2zm2-1zm19 3zm10-1zm18 0zm15 5zm49-8zm1 1zm6 7zm5-1zm1-9zm6 2zm11 0zm6 3zm6 5zm1-8zm49 3zm15-2zm16 5zm26 3zm6 0zm2-7zm7 1zm2 2zm2 2zm8-8zm1 7zm25-5zm7-2zm2 2zm1 6zm3 0zm5 0zm11-5zm10 0zm1-2zm4 6zm3-6zm8 4zm3-4zm3-1zm5 3zm18 3zm4 1zm0-4zm5 3zm1 2zm1-6zm7 2zm8 6zm5-4zm2-1zm0 5zm9-6zm0 4zm0-7zm3 4zm-8 17zm-24-7zm-5-1zm0 5zm-4-3zm-2 1zm-1 2zm-1-7zm-5 9zm-1 1zm-2-1zm-18-5zm-3 4zm-8-5zm-1-4zm-4 9zm0 0zm-7-6zm-9 8zm-2-5zm-23 0zm-16-6zm-7 7zm-1 1zm-2-2zm-4 1zm-6-6zm-4 1zm-18 9zm-9-7zm-1 7zm-1 0zm0-7zm-1 6zm-3-1zm-4-7zm-28-1zm-26 6zm-1-4zm-29 8zm-24 0zm-46-8zm-7 8zm-3-10zm-11 9zm-4-2zm-11-2zm-35-2zm-7-3zm0 2zm-6 1zm-3-3zm-2 4zm-9 1zm-7 4zm-3-10zm-15 7zm-1 15zm3-6zm37 7zm18-3zm22 1zm11-1zm41-2zm7-1zm6-3zm1-2zm22 5zm15-2zm8 7zm40-1zm4-5zm4 2zm6 2zm11-4zm18 1zm17 6zm4-5zm4 1zm0 0zm3 4zm4-6zm1-4zm2 3zm1-2zm9 6zm7 1zm3 2zm1-6zm1-2zm2 2zm13 1zm15 1zm11 1zm12 1zm1-4zm5 0zm8 0zm5 1zm7-2zm0-3zm9 1zm2 9zm4-7zm11-1zm4 3zm5 0zm5 2zm1-4zm9-3zm0 4zm11-3zm-2 16zm-13 3zm-2-3zm-1 2zm-8-7zm-1 10zm-3-3zm-1-2zm0-6zm-13 0zm-23 8zm-23-5zm-2 1zm-9 7zm-1 0zm-1-9zm-20 4zm-3 1zm-9-2zm-9 5zm-3-3zm-8-6zm-11 2zm-4-1zm-7 8zm-7-1zm-4-2zm-5-4zm-3 4zm-1-4zm-3 6zm0-9zm-8 7zm-9-5zm-4 7zm0-7zm-5 9zm-6-6zm-1-3zm0 3zm-25 6zm-25-4zm-3-3zm-2 6zm-47-8zm-27 4zm-4 0zm-1 0zm-2 0zm-1-2zm0-3zm-13 10zm-25 0zm0-9zm-10 2zm-2 6zm-24-8zm-18 2zm-11 4zm-2-7zm0-1zm6 16zm11 0zm1 7zm1 0zm1-1zm1-9zm4 0zm8 6zm35-1zm10 1zm4-4zm12 1zm0-2zm2 0zm13 1zm2 6zm23-6zm8-1zm23 7zm0-8zm1 8zm33 1zm30-6zm1 4zm1-1zm10-5zm5 3zm4-4zm0 5zm1 4zm2 0zm14-2zm1-6zm8 4zm0-2zm3-2zm26 4zm2-3zm11 4zm1-3zm3 0zm5 5zm10-9zm13 8zm2-7zm4 3zm5 3zm9-6zm6-1zm4 5zm8-2zm11 8zm8-1zm12-8zm4 3zm9-3zm1 1zm4 3zm1-2zm1-4zm3 11zm15-8zm2-2zm6 3zm1 1zm5-5zm7 8zm-25 14zm-5-8zm-15 0zm-6 9zm-9-10zm-2 3zm-2 4zm-16-1zm-10 3zm-5-5zm-19-2zm-14 7zm-6-7zm0 7zm-2-2zm-2 2zm0-10zm-11 0zm-14 2zm-7-1zm-4 6zm-2-4zm-2 7zm0-2zm-4 0zm-8-2zm0-2zm-4 0zm-11 2zm-4 0zm-3 0zm-1 5zm-7-4zm-3 4zm-6-5zm-6 0zm-1 4zm-23-4zm-11-2zm-4 6zm-3 0zm-1-3zm-50-7zm-11 2zm-1 7zm-8-1zm-5-5zm-3 4zm-3-4zm-8-3zm-8 3zm-1 0zm-14 5zm-9-2zm-9-6zm-6 6zm-11-4zm0 5zm-3-2zm-27-2zm-5 2zm-11 2zm-2 1zm-2 6zm39 7zm5-1zm2-1zm29-5zm8 4zm3 2zm4-7zm12 2zm1 6zm7-9zm5 1zm5 8zm16-2zm1-6zm9 5zm10 2zm5-4zm19-3zm1 7zm3 3zm9-5zm3-2zm2-2zm2-1zm6 9zm6 1zm3-5zm1 1zm1 0zm13 3zm1-7zm15-1zm5 2zm1 6zm6-7zm3 7zm8 1zm5-2zm5-6zm17 3zm12 4zm0-9zm7 10zm4-10zm1 6zm6 4zm4-8zm1 8zm17-2zm4-8zm3 3zm2 2zm1-5zm9 9zm4-7zm0-2zm2 4zm3-3zm1 2zm11 3zm1-7zm3 3zm7 0zm1 5zm4 1zm1-4zm3 4zm13-3zm8 2zm6-6zm12 7zm1-4zm2 5zm5 6zm-22 4zm-5-8zm-31 6zm-6-4zm-2 1zm-1 3zm-3-6zm-7 8zm-1-2zm-6 0zm-2 3zm-1-3zm-5 5zm-23-3zm-4 1zm-1-6zm-5 3zm0 4zm-18-6zm-1 2zm-5-6zm-12 6zm-5 0zm-2 4zm-1-5zm-23-3zm-6 0zm-5-1zm-22 6zm-10 2zm-3-6zm-9 6zm-10-5zm-2 3zm-10-5zm-7 9zm-8-9zm-31 2zm-28 4zm0-6zm-12 3zm-2 2zm-5-5zm-12 5zm-1-7zm-2 10zm-7 0zm-28-10zm36 13zm12 4zm0 1zm3 1zm15 2zm16-2zm7 4zm10-11zm4 7zm21-4zm1 3zm2-2zm14-4zm14 7zm30-3zm0 1zm1 0zm7-5zm1 7zm4 1zm1-7zm4 3zm2 1zm17-1zm8 3zm6-4zm17 4zm8 4zm6-1zm3 0zm8-6zm11-4zm0 5zm7-5zm5 1zm0 5zm0-1zm3 5zm0-6zm8 0zm8 0zm7 6zm1-6zm6 7zm1-6zm23 5zm9-4zm5 1zm5-6zm0 9zm1-5zm4-1zm1 0zm4-3zm7 10zm2-6zm1-4zm-3 11zm-4 8zm-3-4zm-3 3zm-4-7zm-4 10zm-2-5zm-13 1zm-6-5zm-1 1zm-32 3zm-5-1zm-10-4zm-1 7zm-1-3zm-6 0zm-1 1zm-2 6zm-2-8zm-4-3zm-1 2zm-6 9zm-1-3zm-2 3zm-5 0zm-4-11zm-1 4zm-1 5zm-15 2zm-5-11zm-4 8zm-14 1zm-1-6zm-1 7zm0-1zm-5-7zm-13 3zm-11-1zm-8-2zm-11 0zm-7 3zm-22 4zm-8 2zm-7-2zm-7-4zm-10-3zm-41-1zm-4 8zm-14-6zm-14 6zm12 7zm3 1zm102-2zm8 7zm8-5zm7 5zm12-6zm1 4zm4-5zm8 0zm5 1zm6 2zm6-2zm4 4zm2-8zm5 2zm11 0zm13 0zm3 5zm3 3zm3-8zm2-1zm24 0zm5 1zm2 2zm5 1zm4-2zm1-3zm3 11zm11-1zm7-10zm2 8zm9-2zm8 5zm0 0zm18-3zm3-7zm8 10zm8 5zm-2 7zm-1-8zm-5 4zm-2 2zm-13-9zm-4 7zm-6-3zm-8 4zm-10 2zm-3-9zm0 6zm-1 1zm-15-4zm-5 1zm-16 5zm-1-3zm-6-6zm-5 2zm-5 2zm-6-5zm-6 0zm-3 1zm-9 9zm-1-10zm-11 0zm-1 0zm-3 10zm-2-6zm-7 5zm-4-5zm-1 7zm-1-3zm-6-4zm-6 2zm-2-5zm-13 3zm-2 0zm-7 4zm-1-3zm-8-3zm-7-1zm-5 2zm0 13zm10 4zm3-2zm26 1zm1 0zm9-4zm2 7zm3-6zm5 3zm11-7zm5 4zm1-2zm1 8zm15-2zm5-6zm3 7zm2-2zm6 3zm0-6zm10 2zm10 2zm4-7zm5 6zm2-2zm6 1zm6-5zm7 8zm0-4zm13 4zm19-4zm12-1zm1 4zm11-4zm1 4zm0 5zm-10 6zm-11 2zm-4-8zm-1 6zm0 0zm-6-6zm-3 0zm-8 1zm-10 6zm-23-5zm-5 2zm-9-4zm-2 10zm-6-7zm-11 6zm-8-3zm-2-4zm-4 6zm-13-2zm0-3zm-9-3zm-5 10zm0-9zm-2-1zm-3 6zm-2-1zm-3-5zm-2 1zm-11 2zm-4 4zm-7-6zm-6 2zm-3-4zm-2 3zm-3-1zm-7 1zm-3 1zm-9-2zm5 12zm10 7zm3-4zm0 5zm3-6zm8 7zm11-9zm18 9zm5-8zm4 2zm9-5zm1 5zm19-5zm2 6zm1 1zm2 0zm9-5zm9 8zm3-6zm9 3zm3 4zm3-9zm6 1zm7 0zm8 4zm9-6zm7 8zm4-2zm2-5zm10 4zm2-6zm1 10zm2 0zm2-1zm5 9zm-5-5zm-8-1zm-4 3zm-14 3zm-3-2zm-6 7zm-3 0zm-1-8zm-1 0zm-2-3zm-19 9zm-1-9zm-28 4zm-7 4zm-17-4zm-4-4zm0 6zm-5-3zm-12-2zm-1 10zm-3-11zm-2 3zm-6 5zm-30-7zm4 15zm5 5zm0-3zm1 4zm7-2zm3 2zm1-6zm2-3zm1 5zm2-1zm5 6zm2-2zm8-2zm15-2zm0 1zm22 5zm2-7zm4 3zm7-5zm0 3zm2-4zm14 7zm7-1zm2-1zm7 0zm1 2zm4-4zm2 4zm15-7zm2 2zm10 5zm-6 6zm-18-1zm-18 10zm-2-2zm-8-4zm-12 0zm-2 1zm0-4zm-4 1zm-3 7zm-3-1zm-4-3zm-1-3zm-13-2zm-3 8zm0 0zm-4 1zm-17-7zm-2-2zm-5 8zm-2-4zm-6 2zm-9 0zm-1 2zm-17-5zm41 15zm13-6zm33-1zm48 5z"/>
<path id="h2_3" d="M848 2711zm-5 5zm5 6zm12-3zm-6 14zm-37-6zm-244 8zm-5-3zm-2 0zm-7 2zm-15-9zm-5 9zm-23 11zm10-6zm12 5zm30-3zm195 1zm6 1zm1 0zm14-6zm13 6zm9-3zm1 3zm2-3zm13 6zm18-5zm17 9zm-6 9zm-6 0zm-8-7zm-12 6zm-5-6zm-1 0zm-16-3zm-2 3zm-6-4zm-14 4zm-3-3zm-32 9zm-1-7zm-11 1zm-122 6zm-6-5zm-16 0zm-15 6zm-12-3zm-11-4zm-25-4zm-10 3zm-3-2zm0 5zm-7-4zm-8 1zm-45-3zm-3 0zm-22 8zm-29 7zm23-3zm3 10zm1-1zm1-1zm4-1zm2 1zm1-3zm4 2zm6 2zm5-9zm14 4zm13-2zm12 9zm21-5zm5 3zm7-5zm4 4zm1-8zm8 8zm3 2zm3-6zm20-1zm7-1zm3 8zm7-5zm1 6zm5-2zm1-4zm14 0zm15 4zm1-6zm34-2zm1 10zm0-3zm9-8zm7 7zm2 0zm5-3zm7-4zm5 7zm1-5zm1 0zm0 7zm11 1zm16-1zm5-3zm7-3zm2 5zm5 3zm2-5zm5-1zm23-4zm7 2zm1 3zm1-1zm2 0zm12 2zm1 3zm6-5zm0 3zm10 3zm6-3zm4 2zm3-9zm1 0zm5 2zm4 4zm1-4zm7-2zm1 10zm3-11zm10 11zm7-10zm-3 21zm-40-9zm-1 6zm0 2zm-14-9zm-10 2zm0 0zm-3 1zm-2 6zm-1-6zm-8 5zm-1-1zm-4-7zm-15 3zm-1 4zm-9-1zm-7 5zm-10-5zm0 0zm-26 0zm-7-5zm-8 6zm-11-6zm-7 10zm-15-8zm-12 6zm-44-3zm-3 5zm-4-3zm-14-5zm0 1zm-9-3zm-9-1zm-6 4zm-8 5zm-6-3zm-11 3zm-6-6zm-5 5zm-2-5zm-3 3zm-1-1zm-9 4zm-2-1zm-4-1zm-1-2zm-40-2zm0 5zm-1-6zm-7 6zm-5-6zm-11 5zm-6 4zm-11-3zm-3 0zm-9-3zm-7 2zm-4 2zm-2-1zm-3-4zm-8 18zm13-1zm16-4zm6-4zm3 9zm46-7zm35 0zm24 4zm10-5zm14 9zm5-2zm4-5zm2-1zm21 5zm5 3zm0-1zm18-7zm0-3zm32 9zm7 2zm12-1zm8 0zm37 0zm1-10zm15 6zm4-2zm1 0zm2-4zm9 7zm0-2zm15-2zm11-3zm2 4zm9-1zm10 3zm39-5zm2 0zm3-1zm13 9zm5 0zm9-7zm-1 19zm-1-3zm-26-4zm-7-2zm-9 9zm-7-3zm-2-6zm-7 4zm-2-1zm-13 1zm-17 3zm-10-2zm0-5zm-1 11zm-4-11zm-15 8zm-12-5zm-13 6zm-6 2zm-36-3zm-67-4zm-10 2zm-58-2zm-27-4zm-3 6zm-2-4zm-16 2zm-44 6zm-11-6zm-11-3zm-1 3zm-12-1zm-12 5zm-5-7zm-2 5zm-7 5zm19 2zm13 4zm5 5zm20-8zm7 0zm22 1zm16 7zm24-9zm52 0zm2 3zm10 1zm38 6zm5-10zm14 6zm1-1zm13 4zm7-9zm13-1zm6 8zm1-1zm9 4zm19-2zm2-8zm6 0zm6 1zm20 2zm0 6zm21 1zm5-4zm0 2zm7-9zm10 3zm18-3zm4 11zm4 0zm1-7zm12 4zm3-5zm10 5zm6-5zm4 4zm2-6zm4 1zm4 1zm1-1zm2 9zm2-8zm6 1zm-13 19zm-2-1zm0-5zm-6-2zm0 5zm-11-3zm-2 6zm-11 0zm-5-5zm-6-1zm-26-2zm-11 0zm-8 2zm-17-2zm-4 0zm0 8zm-12-5zm-4 3zm-14-6zm-27-2zm-1 5zm-17-3zm-5 4zm-1-5zm-10-1zm-8 2zm-6 6zm-9-2zm-1-6zm-3 1zm0 8zm-2-8zm-2-1zm-10 5zm-28 5zm-5-5zm-1 4zm-21-4zm-17 5zm-5 0zm-14-6zm-5-2zm-7 7zm-11-3zm-41-7zm-18 3zm-16 0zm-40-3zm12 15zm11-2zm18 6zm10 4zm5-3zm1-3zm6 5zm4 1zm1-10zm6 4zm8-4zm2 10zm31-4zm1-5zm44 0zm16-2zm3 3zm12 1zm24-2zm2 2zm4 5zm4 2zm3-8zm15 0zm12 8zm13-11zm10 5zm8-1zm7-3zm5 4zm20 2zm6-6zm17-1zm3 6zm8 3zm10-5zm23 2zm13 1zm16-4zm1 7zm1 0zm2-5zm2 3zm3 0zm1-3zm29 6zm14-10zm7 8zm7-3zm-32 9zm-17 7zm-3 1zm-3-11zm-3 11zm-31-1zm-17 0zm-4 1zm-5-2zm-11 0zm0-1zm-2-1zm-4-6zm-9 3zm-37 3zm-11-7zm-4 0zm-13 2zm-1 7zm-7-2zm-14-4zm-6 5zm-2-7zm-13 1zm-8 1zm-24 3zm-4 2zm-9 3zm-36-1zm-24-6zm-11 3zm-23 1zm-4-2zm-9-6zm-2 8zm0-4zm-1-3zm-6 7zm-1-8zm-1 7zm-17-4zm-2 2zm-13-4zm-11 0zm-21 8zm15 3zm20 4zm8 7zm7-9zm4 3zm1 4zm5-6zm0 2zm16 1zm11-2zm11-2zm6 7zm11 1zm8-8zm5 3zm13-4zm7 10zm13-7zm1 5zm18 2zm5-7zm1 5zm1 2zm3 0zm12-8zm1-3zm11 5zm11-4zm10 5zm5 4zm3 1zm18 0zm1-6zm11-4zm5-1zm10 9zm4 2zm6-2zm0-1zm9-5zm6-1zm7 6zm15-1zm4 1zm1 1zm1-3zm18 4zm2-10zm15 4zm7 2zm2 3zm1-8zm4 6zm0-1zm3-4zm0 4zm8 0zm15 4zm5-6zm6-2zm3 7zm10-7zm5 4zm9-6zm-6 15zm-6 4zm-23-4zm-5 1zm-7 1zm-1 6zm-6-5zm-2 2zm-7-5zm-6-1zm-17 8zm-18-5zm0 4zm-9-5zm-5-2zm-1 5zm-1 2zm-5-5zm-1 6zm-3-1zm-1-2zm-17-4zm-4-1zm-3-2zm-12 0zm-3 11zm-18 0zm-1-5zm-7-5zm-16 4zm-2 6zm-12-10zm-4 6zm-4 3zm-2-9zm-12 2zm-15-1zm-38 6zm-17 0zm-14 2zm-16-1zm-19 0zm-14-9zm11 14zm17-2zm13 7zm8 3zm1 1zm2-3zm2-3zm0 0zm1-2zm7-2zm8 0zm1-1zm9 4zm3-1zm4 3zm7-6zm6 7zm11-7zm4 1zm13 10zm4 0zm12-9zm2 3zm9 5zm2-5zm2 3zm5-5zm7 4zm12-4zm2 1zm11 1zm1 5zm1-10zm3 8zm6 2zm0-1zm9 0zm5-7zm3 8zm8-5zm7-5zm6 4zm15-3zm1 7zm5-5zm4 1zm3 3zm1-5zm4-2zm1 3zm7 8zm4-1zm8-3zm9-5zm9 4zm4 4zm4 1zm2-1zm2-3zm2-2zm39 9zm-5 4zm-5-6zm-15 4zm-3 5zm-5-7zm-5 5zm-15 4zm-9-6zm-1 3zm-6-2zm-4-4zm-1 6zm-3-6zm-7-2zm-5 9zm-5 0zm-10-6zm-5-1zm-12 2zm-12 7zm-3-4zm-4 4zm-11-1zm-3-9zm-21 1zm-3-2zm-2 3zm-2 6zm-1-8zm-22 10zm-6-1zm0-9zm0 3zm-9-1zm-15 6zm-25-5zm-1-3zm-9 2zm-41 2zm-8-4zm-6 9zm0-10zm-8 3zm-1 2zm-29-4zm143 17zm13 3zm2-1zm1-6zm4 3zm5 6zm3-11zm3 8zm4-8zm15 6zm15-4zm6 4zm1-2zm2 0zm19 3zm6-3zm3 0zm5-2zm15 7zm5-9zm6 9zm7-2zm4 1zm1-4zm4 3zm2-7zm6 11zm0-2zm9-8zm9 8zm4 1zm14-5zm15 5zm1-3zm6 9zm-11 1zm-9-4zm-18 1zm-22-1zm-4 8zm-6-4zm-5 4zm-2-9zm-1 10zm-29-6zm-8-4zm-4 5zm-8 4zm-5 1zm-7-4zm-4 2zm-11-5zm-17 7zm-1-8zm-11 2zm-21-4zm-3 4zm-7-4zm-13 8zm-4-3zm-3-5zm-8 1zm21 15zm4 3zm5 1zm1-6zm1 4zm1 2zm0-6zm14 3zm12-3zm4 1zm1-2zm10 5zm5 4zm18-10zm4 11zm0 0zm12-6zm7-3zm7 0zm3 2zm1 5zm11-1zm2 1zm1-2zm2-2zm18-5zm3 9zm5 0zm1 0zm6 0zm11-6zm3 5zm3 2zm8-6zm1 3zm23-5zm4 6zm7-2zm1-2zm0 7zm10-6zm-20 13zm-5 4zm-7-7zm-1 7zm-6-10zm-6 2zm-22 2zm-9 3zm-4-6zm-5 9zm-10 0zm-6-2zm-3 1zm-11-4zm-5-1zm-6 6zm0-3zm0-2zm-1 5zm-8-2zm-7 2zm-3-8zm-9 3zm-6 5zm-1 1zm-42 0zm-7-3zm-4 0zm-3 15zm1-4zm8 0zm1 3zm3-3zm4-5zm8-1zm2 1zm3 8zm2-8zm9-1zm5 5zm0 3zm11-7zm7 4zm23 0zm0-4zm5 5zm4-2zm1-5zm1 6zm1 4zm4-1zm5 0zm11-1zm7 1zm1-1zm3-5zm3-2zm0 0zm8 6zm2-2zm8 4zm0-3zm1-3zm4 2zm10 4zm27-8zm-13 19zm-4-7zm-4 4zm-5 4zm-1-8zm-1 8zm-3-2zm-15 4zm-8-4zm-6-3zm-1-4zm-24 8zm-3-4zm-17 3zm-2-6zm-11 8zm-12-3zm-7-2zm-5 7zm-1-5zm-9-5zm-4 1zm-5 3zm-18 3zm-1 1zm-1-8zm-7 3zm-1 1zm0-1zm8 19zm2-1zm12 1zm2-6zm3 0zm2-5zm5 4zm5 3zm15 1zm13 1zm4-1zm1-8zm5 8zm6-8zm0 4zm1 3zm3-4zm6 8zm16-4zm1 3zm5-4zm3 1zm3-2zm6 3zm4-7zm1 3zm11 6zm7-6zm6 5zm5-7zm5 2zm10 1zm-23 7zm-19 3zm-2 0zm-7 3zm-4-2zm-2 4zm-15-4zm-3-1zm-7 0zm-19 3zm-1-6zm-15 0zm-5 0zm-4 8zm-1 1zm-2 2zm0-9zm-5 6zm-2 3zm-1-6zm-22-1zm-9 2zm38 17zm8-8zm3 1zm14 5zm6-6zm28-2zm19 0zm1 6z"/>
<path id="h2_4" d="M838 2735zm-2-8zm-5 3zm-4-1zm-14 3zm-238 0zm-5 1zm-13 2zm-26 7zm8-1zm34 0zm175 2zm29-1zm10 4zm18-2zm9-7zm1 0zm2 10zm14-7zm3 2zm1-3zm2 1zm0 0zm2 1zm16-1zm9 11zm-32 5zm-173 2zm-71-2zm-6-5zm-16 2zm-4 6zm-5-5zm-6-5zm-11 10zm-15-5zm-9-1zm-4 2zm-23-2zm-1 0zm0 3zm-3-3zm-3 4zm-3-3zm-15-6zm-13 6zm-40 0zm-6 10zm10-4zm5 7zm4-3zm3 3zm16 3zm14 1zm19-4zm6 2zm25 0zm1-7zm6 8zm13-1zm24 1zm7 1zm6 0zm10-1zm10-3zm1 0zm1-6zm6 2zm2-1zm6 9zm1-2zm16-2zm19-1zm24 4zm0-6zm7-4zm2 4zm1-2zm45 5zm0-7zm3 6zm2 4zm27-4zm15 5zm14-8zm17 3zm4 4zm10-4zm2 5zm7-2zm7-2zm6 2zm13 2zm3-5zm4 0zm-3 13zm-24 4zm-15-9zm-4 2zm-28-2zm-5 6zm-6 2zm-3 1zm-12 0zm-36-9zm-10 3zm-7-1zm-3-4zm-5 8zm-38 3zm-3-4zm-2-2zm-8 5zm-6-10zm-15 4zm-6 4zm-37 3zm-21-11zm-11 8zm-8-8zm-23 5zm-4 0zm-4-4zm-5 4zm0 6zm-7-1zm-17-3zm-6 3zm-20-6zm-7-2zm-2 9zm-13-2zm-16-7zm-1 6zm-6 15zm12-6zm2-4zm1-1zm9 5zm7 0zm16-5zm8 11zm0-10zm11 7zm25-1zm0-1zm28 1zm13-5zm30 1zm5 1zm1 1zm7-3zm4 1zm28 3zm9 2zm5 3zm50-7zm21-2zm11-2zm8 6zm26-1zm2-3zm3-1zm14 10zm6-2zm1-5zm5 4zm2-1zm2 4zm11-10zm1 2zm13 2zm8 5zm2-6zm7-2zm17 8zm13-7zm-11 16zm-8-3zm-4 4zm-19-2zm-12 2zm-3-8zm-9 8zm0-6zm-20 8zm-8-8zm-1 1zm-3 0zm-9 8zm-5-6zm-1-5zm-14 7zm-6-2zm-41 4zm-11 1zm-7-5zm-5 3zm-2-6zm-10 8zm-2 0zm0-2zm-1 3zm-11-6zm-16-3zm-17-1zm-42 2zm-13 7zm-33-6zm-5 6zm-12-5zm-50 2zm-26 2zm-18-1zm-18 2zm-1-5zm-1 4zm-1 4zm14 5zm62 0zm43-6zm48 4zm2-4zm8 7zm36 2zm21-6zm5 3zm13-2zm3 4zm7 2zm5-8zm6-1zm25 2zm4 0zm11 5zm19-5zm24 5zm7-3zm1 5zm4-8zm5 5zm4 4zm8-11zm8 5zm13 1zm2-2zm33 2zm1-1zm23 0zm6 0zm-3 10zm-23 3zm-9-5zm-8 0zm-4 5zm-9 1zm-10-1zm-7 3zm-2 1zm-2-5zm-5-3zm-1 7zm-7-3zm-2 5zm-4 0zm-14-10zm-9 4zm-13 1zm-13-5zm-8 10zm-3-2zm0-8zm-12 7zm-20-6zm-9 2zm-4 5zm-1-1zm-3-4zm-14 5zm-18-1zm-2-1zm-43 0zm-8-7zm-46 3zm-21-2zm-18 9zm-5 0zm-8 1zm-2-4zm-1 4zm-14-3zm-5-4zm-40-3zm-15 10zm-10 1zm7 4zm10 1zm0-5zm4 5zm18 4zm12 1zm17-3zm24 4zm12-7zm20 4zm31 0zm14-2zm5-6zm8 1zm2-1zm2 2zm13-2zm5 4zm20 1zm9 4zm2-1zm8-1zm15-7zm1 0zm7 11zm13-2zm1-1zm5-7zm12 9zm39-10zm1 9zm9-9zm17 10zm35-1zm31-1zm3 1zm4 1zm16-3zm0 2zm19-7zm2 5zm-9 6zm-10 3zm-5-1zm-2 6zm-14-4zm-3-5zm-1 8zm-2-2zm-6-3zm-6 2zm-5-1zm-10-3zm-13 6zm-19-4zm0 7zm-11-5zm-5 2zm-7-4zm-13 1zm-7 7zm-18-7zm-1-3zm-6 1zm-4 7zm-32 2zm-1-6zm-1-1zm-10-1zm-1-3zm-11 2zm-1 9zm-38-3zm-17-2zm-16 4zm-18-5zm-2 5zm-30-6zm0-2zm-14 2zm-12 4zm-21-2zm-6 4zm-45-6zm27 15zm13-1zm4-3zm5 2zm3 6zm2-9zm12 8zm3-5zm14 2zm3-5zm11 1zm13 2zm6 6zm13-4zm27-4zm20-3zm21 7zm5 1zm6 1zm14-5zm2 5zm14-7zm2 6zm3 3zm15-3zm3 1zm5-1zm15-5zm25 2zm3-5zm11 11zm0-7zm0 5zm16-9zm10 4zm3-4zm6 3zm3-1zm1 8zm0 1zm2-5zm4 3zm6-9zm9 6zm1-1zm4 2zm2-5zm12 6zm7-7zm17 7zm1-8zm7 5zm2 2zm1 0zm1 9zm-11 3zm-3 4zm-7-7zm-3-2zm-10 9zm0-7zm-16-1zm-6 6zm-4-5zm-12 6zm-10-9zm-31 2zm-14 8zm-15-6zm-46 1zm-16 5zm-6-8zm-2-2zm-15 0zm-12 10zm-2 0zm-1-6zm-1 4zm-6 0zm-14 2zm-6-3zm-26-7zm-9 7zm-2-4zm-13 0zm-19 0zm-7 3zm-13 1zm-7 1zm-10 1zm-6-7zm0 8zm-9-11zm16 23zm6-7zm11 5zm3-8zm33 3zm22-1zm1 1zm5-2zm14 3zm4 0zm4-2zm9 7zm18-3zm33-6zm11 6zm5-3zm1-2zm1-1zm8-1zm13 2zm13 1zm3 0zm7 1zm13-3zm3 1zm13 8zm14-1zm15-8zm2 8zm14-8zm21 9zm3-1zm1-5zm2 4zm30-1zm7 2zm-8 14zm-4-3zm-8-1zm-7 4zm-17-9zm-5 6zm-17-8zm-1 4zm-12-3zm-26 7zm-8-5zm-3 7zm-2-5zm-1 3zm-1 0zm-8 3zm-16-4zm0-1zm-1 3zm-3-7zm-17 0zm-1-2zm-7 1zm-1 7zm-19 2zm-4-4zm-1 5zm0-5zm-2 3zm-9-8zm-4 6zm-2-1zm-12-3zm-13 7zm0 0zm-25-10zm-51 10zm82 10zm18-4zm14-4zm4 3zm12 0zm3 7zm13-9zm2 4zm13 6zm7-4zm3-7zm3 10zm1-1zm13-9zm1 3zm24 6zm5-8zm5 3zm13 0zm2 6zm8-10zm2 3zm1-1zm3 0zm3 0zm8 9zm1 0zm12-1zm25-4zm3-5zm2-1zm-11 12zm-4 10zm0-2zm-10-4zm-3 7zm-3-2zm-3-5zm-13-4zm-7 2zm-2 5zm-9 3zm-2-4zm-6-6zm-18 11zm-7-2zm-4-1zm-1-1zm-15-4zm-3-3zm-19 4zm-7-4zm-14 0zm-19 9zm-12-4zm0-4zm-2 9zm-7-2zm-6 0zm-6 2zm-18-1zm29 8zm11-2zm3 5zm6-3zm5 6zm23-9zm0 4zm7 5zm1-10zm7 0zm17 6zm30 1zm4-2zm7 2zm2 3zm7-7zm5 5zm14-8zm38 3zm1 5zm9-9zm8 7zm-25 7zm-2-1zm-13 3zm-19 1zm-1 5zm-4-10zm-5 2zm0 7zm-7 2zm-9-3zm-11-3zm-8-1zm-1 3zm-40-1zm-13 4zm-13-4zm-15-2zm-10 4zm-11 2zm-12-2zm-4-8zm18 12zm2 10zm7-1zm3-3zm16-4zm4 8zm2 1zm13-10zm5 3zm6-3zm21 6zm33 4zm5-4zm10 1zm0-7zm2-1zm2 6zm1 5zm31-4zm0-6zm4 4zm1-1zm16 1zm12-3zm-16 10zm-5 8zm0-6zm-1 3zm0-1zm-7-3zm-16 6zm-20-1zm-1-2zm0 0zm-21-3zm-17-1zm-16 8zm-2 0zm-3-4zm-37-2zm-27 9zm6 10zm16-9zm36 9zm14 1zm5-8zm6 0zm0 6zm3 3zm2-10zm5 5zm26-3zm7 4zm5-6zm0 4zm9 3zm4-2zm4 1zm9-4zm-4 13zm-36 2zm-18-4zm-28 6zm-11-5zm-18 2zm-4 3zm-2 0zm-20-7zm-6 10zm-6-9zm25 19zm2-4zm4 6zm13-1zm6-1zm59-8z"/>
<path id="h2_5" d="M861 2705zm-29 14zm1 3zm1 10zm-7-4zm-18 4zm-284-5zm-67 15zm87-6zm15 7zm15 1zm213 1zm14-9zm12 11zm0-5zm3 5zm13-5zm37 12zm-23 1zm-7 2zm-5-2zm-28-6zm-7 9zm-10 0zm-2-3zm-6 1zm0-7zm-2 7zm-12-5zm-8-3zm-10 10zm-16-3zm-72 1zm-97-8zm-9 3zm-7 3zm-6-2zm-10 6zm-11 0zm-18-8zm-17 5zm-27 4zm-75 6zm10 3zm22-1zm26 3zm6-8zm19 8zm4-3zm22-6zm22 4zm5-3zm21 5zm39-4zm33 4zm1 2zm4-8zm14 10zm9 0zm2-1zm6-4zm10 1zm11 1zm49 0zm13 2zm15 1zm1-8zm3 5zm23-2zm14 0zm3 5zm24-9zm29 7zm0-2zm0-6zm7 1zm3 9zm-11 4zm-12 8zm-2-10zm-6 2zm-14 0zm-24 1zm-5 3zm-6-3zm-4 6zm-25-3zm-24-6zm0 5zm-9 5zm-7-1zm-7-2zm-36-6zm-6 6zm-8-1zm-12-6zm-4 9zm-6-10zm-28 11zm-30-8zm-14 2zm-6 4zm-3-9zm-11 10zm-2-10zm-26 9zm-1-6zm-11 6zm-14-6zm-15 1zm-37-2zm-24-1zm-22 18zm2-3zm17 3zm3-6zm28 4zm11 1zm1 0zm26-6zm15 8zm15-7zm15 2zm23-1zm5 5zm27-7zm20 4zm3 4zm1 1zm2-4zm25-1zm22 4zm44-1zm2 3zm17-4zm8-6zm6 10zm2-9zm8 7zm6-4zm2-1zm10 8zm22-11zm12 5zm2 2zm2 4zm2-9zm4 3zm6 4zm0 1zm20-8zm3 4zm4 3zm21 13zm-10 1zm-8-7zm-27 2zm-25 4zm-12-9zm-4 7zm-8-2zm-16-5zm-14 5zm-2 2zm-23-4zm-10 5zm-42 1zm-5 0zm-48-9zm-3 3zm-23 3zm-40-3zm-63-3zm-41-1zm-5 7zm-8-6zm-2 7zm-26-1zm-8 12zm19-5zm2 3zm4-1zm4-4zm42 2zm22 5zm13 0zm11 4zm54-4zm2-5zm14 0zm41-1zm16 1zm23 0zm3 4zm26 0zm12 4zm2-5zm1-3zm11-1zm0 1zm15 9zm1-6zm1 0zm8 0zm5-3zm1 5zm54 1zm6-6zm3 2zm12 1zm2 3zm0-5zm4 0zm23 7zm4-4zm1 3zm13 9zm-6-2zm-2-3zm-4 9zm-14-9zm-22 0zm-6 9zm-17-8zm-4 1zm-4-1zm-1 4zm-8 2zm-9 3zm-10-7zm-13 7zm-12-4zm-12-4zm-4 4zm-5 4zm-17-1zm-2-2zm-7 1zm-27-8zm-8 5zm-4-3zm-7 4zm-1-3zm0 3zm-7 1zm-5-3zm-4 2zm-1-5zm-60 1zm-20-3zm-6 2zm-40 4zm-1 4zm-30-8zm0-2zm-2 10zm-4 1zm-54-5zm-9-2zm-4 3zm28 5zm2 3zm1-1zm9 2zm6 4zm85-2zm5 5zm23-6zm30 2zm16-2zm4 3zm7-1zm6-6zm16 4zm1 5zm0 1zm15-4zm16-1zm19-2zm0-3zm15 2zm2-1zm49 5zm1 3zm0-6zm8 4zm13-5zm60 4zm18-6zm-3 18zm-3 4zm-2-6zm-5 5zm-13 1zm-23-3zm-2-4zm-12 0zm0 0zm-11 3zm-6 0zm-10 0zm-14-6zm-4 9zm-14-6zm-2 1zm-2 4zm-3-5zm-23 7zm-10-5zm-17 3zm-11-6zm-5-2zm-3 2zm-10 4zm-19 4zm-37-1zm0-4zm-38-6zm-75 0zm-24 11zm-13-10zm-6 4zm-9 9zm3-2zm27 8zm16 3zm3-11zm6 11zm7-3zm68-6zm18 9zm9-2zm19 1zm13 1zm0-4zm2-4zm4 2zm3 4zm6-6zm24 5zm1-2zm29 0zm0 5zm13-6zm4-1zm9 6zm29-8zm6 7zm17-2zm4-6zm5 10zm38-6zm10 4zm4-9zm1 3zm11 3zm1 0zm0-2zm4 3zm-36 6zm-11 9zm-2-6zm-11 4zm-1-8zm-2 10zm-3-8zm-12 1zm-2-2zm-15 10zm-11-3zm-10 1zm-20-1zm-12-2zm-18 4zm-12-10zm-15 6zm-14 1zm-2-4zm-4-3zm-16 9zm0-3zm-2 1zm-4-3zm-16 5zm-10-9zm-15 6zm-15 3zm-39-5zm-3 5zm-11-3zm-16-5zm-21 2zm-3-3zm28 15zm74-3zm46 1zm16 0zm14 10zm7-4zm21 2zm5-8zm26 3zm4-2zm4 9zm2-6zm2-4zm17 9zm24-2zm6-8zm4 7zm16-2zm0-2zm8 0zm9 2zm1-5zm8 8zm40-1zm-3 12zm-27 3zm-2 0zm-6-10zm-23 11zm-5-5zm-6 5zm-4 0zm-2 0zm-5-11zm-16 1zm-7 4zm-36-5zm-9 8zm-1-2zm-60-1zm-17 1zm-8 5zm-6-3zm-86-4zm-8 3zm-1 4zm-21-5zm107 16zm21-6zm1 6zm0-2zm9-7zm18 9zm11-7zm24 0zm13-2zm16 9zm21-4zm4-1zm5 6zm47-10zm4 8zm9 1zm4 1zm3-4zm3 2zm2 0zm4-4zm1 0zm3-2zm11 5zm4-8zm0 1zm5 10zm0 11zm-38-4zm-7-3zm-5-3zm-18 0zm-32 10zm-7-3zm-9-1zm-5 1zm-2 4zm-8-7zm-6 0zm-27 2zm-16-1zm-52-2zm14 9zm2 0zm4 8zm4-3zm6 0zm10-2zm4 4zm1-7zm46 6zm11-4zm10-2zm1 6zm0 0zm28 4zm3-8zm10 0zm17 3zm7 1zm12-4zm11-1zm16 0zm3 5zm1-1zm2 1zm11-5zm2 0zm-3 19zm-6-3zm-3 4zm-3-7zm-11 8zm-14-4zm-14-5zm-2 2zm-2 7zm-1 1zm-8-5zm-8 4zm-5-8zm-3 1zm0 3zm0-3zm-11-1zm-5-2zm-22 3zm-14 7zm0 1zm-9 0zm-10-10zm-4 1zm-2 2zm-9 7zm-3-7zm-3-3zm-19 10zm-19-11zm0 21zm6-4zm60 1zm7-5zm1 3zm3 4zm3-7zm8 4zm13 0zm19 4zm6 1zm9-10zm15 6zm31-1zm8-4zm-38 19zm-15-2zm-14 3zm-51 0zm-6 2zm-12-6zm-5 3zm-1 2zm-1 0zm-14-7zm-2 4zm-4-2zm-3 4zm-3-4zm-4-5zm-9 4zm-2-2zm6 21zm29-5zm11 1zm1-7zm20 3zm4 3zm17-3zm24 8zm1-3zm9-1zm26 2zm3-1zm-22 5zm-9 5zm-7 1zm-22-5zm-2 4zm-18-1zm-1 3zm-8-1zm-8-5zm-6 7zm-24 0zm-6 1zm24 10z"/>
<path id="h2_6" d="M820 2722zm35 3zm-25 0zm-305 15zm14 7zm25-7zm236-3zm18 0zm2 7zm3 1zm5 0zm15 2zm3-10zm0 8zm15 12zm-27 0zm-1-4zm-4-4zm-1 2zm-36 5zm-12-3zm-25 4zm-192-1zm-35 0zm-8-4zm-50 6zm-1-1zm-3-4zm-1 18zm12-9zm10 4zm6-1zm4-5zm54 5zm5-4zm4 8zm3-3zm13 5zm2-6zm29-3zm35 8zm1-9zm10 5zm12 0zm1-6zm0 4zm15 0zm27 5zm6-4zm1 5zm3-3zm45 3zm12-10zm1 2zm19 5zm1 0zm2-2zm1 4zm13-6zm12 0zm7-2zm1 9zm8 12zm-3-6zm-7 6zm-7-8zm-20 6zm-16 3zm-14-4zm-3 1zm-3 3zm-1-10zm-9-1zm-18 6zm-15 0zm-3-3zm-6 0zm-5 3zm-48-5zm-4-1zm-6 10zm-20-9zm-1 6zm-13 1zm-31-7zm-44 10zm-16 0zm-19-5zm-39-2zm-48 0zm-8 2zm-13-4zm-4-1zm-24 18zm20 2zm3-6zm2 5zm4 3zm25-2zm17-2zm13-7zm14 5zm25 3zm10-3zm3-2zm6-2zm7 6zm9-5zm1 4zm12-4zm32 1zm1 2zm10-5zm1 3zm6-1zm19 2zm11 1zm57 2zm7 4zm21-4zm19 1zm5-5zm9 5zm3 3zm5-11zm7 0zm15 10zm12-9zm9 6zm2 2zm6 1zm1 1zm1-8zm0 6zm10-2zm40 1zm-13 12zm-7-6zm-12-1zm-32 0zm-11 10zm-29-5zm-1-4zm-10 6zm-4 1zm-5 0zm-75-4zm-43 1zm-30-5zm-7 1zm-22 6zm-42-1zm-39-7zm-10 3zm-39 8zm-47-2zm17 3zm16 9zm10 0zm46-4zm5 5zm4 0zm15-6zm41 6zm42-8zm25-1zm20 10zm16-9zm6 5zm2 1zm8-2zm14-5zm13 10zm23-10zm35 6zm43 1zm26-1zm3-2zm2-1zm11 5zm3-6zm1 2zm0 4zm7 0zm4-6zm10 8zm-32 3zm-3 4zm-5 3zm-8-7zm-14 7zm-30-4zm-30-1zm-1 0zm-13 1zm-30 1zm-5-3zm-15 5zm-19-3zm-16 0zm-7 3zm-96-4zm-4-4zm-11 7zm-36 4zm-67-9zm-24 12zm7 6zm33-5zm3-2zm14 6zm8-7zm9 4zm66 1zm6 5zm0-2zm47-1zm0-4zm32 6zm15-5zm4-3zm8 1zm3 4zm11-6zm21 5zm29 0zm5-1zm18 7zm16 0zm1-5zm12 4zm24-5zm14 2zm8 0zm16 0zm23-2zm-52 14zm-1 2zm-16 1zm-2-9zm-22 7zm-11 0zm-2 1zm-12-2zm-3-5zm-22 6zm0-4zm-5 5zm-32 1zm-9-10zm-15 11zm-24-10zm-1 10zm-6-2zm-33 0zm-8-8zm-5 5zm-14 2zm-7 2zm-13-7zm-39 3zm-8 5zm-43-2zm-39 4zm7 1zm42 8zm42-6zm8-1zm34 4zm3 2zm38 2zm10-8zm26 8zm16-7zm24 0zm17 0zm4-3zm24 5zm11 2zm3 1zm7 0zm4-7zm1 8zm37-2zm1-1zm11-4zm11 4zm0-7zm18 8zm6-1zm6 3zm11-9zm-16 11zm-6 4zm-21-4zm-44 11zm-12-2zm-3-8zm-32 0zm-12 7zm0-1zm-5 1zm-16 0zm-15-5zm-20 1zm-8 4zm-6 0zm-16-6zm-1 6zm-3-6zm-44 2zm0 3zm-5 0zm-21-3zm-33 3zm-11-4zm-5 7zm21 13zm53-6zm13-2zm25 6zm22 0zm6-4zm17 2zm6 3zm14-10zm23 11zm2-10zm3 8zm19-7zm22 9zm11-11zm20 2zm3-2zm32 7zm24-5zm22 4zm1 7zm-38 3zm-12-1zm-6-2zm-19 7zm-1 0zm-7-1zm-1 1zm-8 1zm-25-5zm0 7zm-2-4zm-1-3zm-22 5zm0-7zm-8 1zm-3 3zm-1-3zm-3 8zm-12-10zm-11 9zm-8-4zm-5-3zm0-1zm-5 1zm0-3zm-30 0zm-3 1zm-5-1zm-10 8zm-28-2zm-72-5zm-12 3zm122 14zm3-2zm7 7zm1-8zm9 7zm0 0zm3 1zm28-7zm11 1zm28 6zm8-11zm22 2zm10 2zm11 1zm5-4zm5 8zm1-5zm5-1zm8 4zm41-2zm6 4zm20 7zm-7-1zm-37 3zm-4 2zm-12-3zm0-2zm0 1zm-1 5zm-3 0zm-18 0zm-12-6zm-1-1zm-9 7zm-32-8zm-32 10zm-9-4zm-11-6zm-2 9zm-5-10zm-5 9zm-2-6zm-12 9zm23 9zm3-8zm3 7zm7-3zm12 5zm48 1zm60-5zm2-4zm22 7zm20 3zm-17 2zm-16 0zm-10 7zm-2-2zm-5 3zm-61 1zm-3-4zm-3 4zm0-1zm-5-5zm-17-1zm-5 0zm-9-4zm-16 5zm-25 5zm-1-2zm-2 14zm21-9zm47 7zm3-3zm1 1zm11 5zm5-10zm6 5zm9-5zm30 5zm2 0zm7 2zm13 3zm6-11zm4 9zm35-8zm-7 16zm-26 6zm-16-3zm0-1zm-14-3zm-24 1zm0-5zm-13 5zm-7-1zm-4 0zm-5 0zm-33 0zm-5-3zm-2-1zm-10 9zm-1-3zm-8-5zm-6 6zm-7-1zm0-5zm-8 3zm-2-2zm12 21zm9-9zm4 6zm18 3zm10-5zm2-2zm2-1zm34 4zm2 4zm7-4zm53-4zm5 8zm2-5zm-7 6zm-29 9zm-19-6zm-4-2zm-2 10zm-5-3zm-27 2zm-20 1zm-7-6zm-4-4zm-4-1zm-8 5zm0 0zm5 8zm28 4zm16-3z"/>
<path id="h2_7" d="M814 2723zm32 4zm-304 5zm-26 13zm13-7zm239 4zm2-3zm28 3zm1 4zm0-2zm6-2zm47 4zm-14 6zm-5-2zm-18-2zm-4 6zm-38-4zm-24 5zm-3 2zm-12-4zm-54 3zm-6-4zm-17 1zm-20 5zm-155-3zm-27-6zm0 7zm-4-2zm-1 1zm-57 13zm18 2zm3 1zm76-1zm16 0zm52-5zm5-5zm26 10zm55 0zm41-10zm18 2zm10 0zm18 8zm1-3zm6-6zm2 3zm4-4zm23 10zm6-1zm2 2zm16-1zm10-1zm6-4zm18-5zm19 5zm12 10zm-20 8zm-29-2zm-16-4zm-25 3zm-8 2zm-10-5zm-17 3zm-3 2zm-35-6zm-117 3zm-16 2zm-17 1zm-2-4zm-20 3zm-23-6zm-4 6zm-23-6zm-13-3zm-18 3zm-33 0zm-3-3zm-4 0zm-14 15zm57-1zm20 7zm30-2zm7 1zm71 1zm10-9zm15 4zm18-2zm24-2zm80 6zm12 0zm16-1zm10-2zm7-1zm27 0zm2 6zm3-5zm3 0zm19 6zm16-3zm4-4zm1 9zm1-5zm5 15zm-1 1zm-29 0zm-7-3zm-16-3zm-32 1zm-24-1zm-10 5zm-10-5zm-30-4zm-31 8zm-9-6zm-11 1zm-21 4zm-18-2zm-41-1zm-4 2zm-8-1zm-21-5zm-7 8zm-86 3zm-36 7zm17 4zm36-6zm30 5zm28-1zm50 2zm52-9zm1 7zm24-6zm87 6zm1 3zm2 0zm8-1zm27-1zm41 1zm24-1zm0-6zm3-3zm0 11zm1-5zm0 3zm3-6zm-7 12zm-2 3zm-5-1zm-2 1zm-3 1zm-4-6zm-15-1zm-2 9zm-20-7zm-6-2zm-4 5zm-1-1zm-16-4zm-22 8zm0-5zm-56 0zm-13 7zm-8-1zm-17-8zm-3 5zm-12 2zm-56 3zm-41-6zm-26 0zm-45-1zm-59 4zm-5-4zm17 17zm27-6zm38 4zm5-6zm2-1zm1 3zm42 8zm3-8zm24 1zm4 7zm39-7zm4 6zm28-4zm1-1zm0-1zm35 7zm12 0zm0-10zm15 10zm3-3zm18-1zm18-2zm21 3zm22 3zm11-3zm16-8zm6 3zm21-3zm3 11zm30-5zm-22 9zm0 6zm-17-1zm-11-3zm-5-5zm-10 10zm-61-5zm-21-1zm-17 3zm-48-2zm-12 2zm-33-5zm-12 9zm-12-7zm-62 0zm-5-4zm-40 3zm-19-2zm-5 0zm-51 2zm-5 12zm72 0zm7 3zm9-6zm5 3zm2 4zm50 3zm6-1zm59-5zm4 5zm59-2zm0 2zm50-5zm15 4zm10 2zm18-4zm2-1zm8 1zm10-5zm1 4zm5 6zm4-6zm3 4zm4 2zm1-7zm39 13zm-24 5zm-10 0zm-42-10zm-9 4zm-30 0zm-4 1zm-54 2zm-7-6zm-6 6zm-5 1zm-8-1zm-7-2zm-12-2zm-1-2zm-61 5zm-3 4zm-1-6zm-12-3zm-10 1zm-18 7zm-13-9zm-18 0zm-15 2zm-13-2zm12 14zm6 5zm27-3zm8 0zm20 5zm71-4zm35-4zm0 9zm2-4zm18-6zm2 5zm3 6zm4-2zm4-7zm56 7zm16-6zm12 1zm3 5zm1 2zm42-10zm24 13zm-1 1zm-43 0zm-26 3zm-6-4zm-31 8zm-30-5zm-25-1zm-17 2zm-29-2zm-6 4zm-10 3zm-2-11zm-7 1zm-60 1zm50 12zm3 7zm9-1zm22 2zm13-1zm15-4zm97 6zm5-7zm2-1zm31 1zm2 0zm2 1zm3 1zm25-5zm-23 19zm-30-2zm-6 4zm0-7zm-11 3zm-4-6zm-48 10zm-30-1zm-9-8zm-24 9zm-19 1zm-6-3zm23 14zm10-6zm31 1zm43-1zm69 1zm10-4zm24 2zm-5 14zm-3 5zm-21-3zm-28-6zm-1 3zm-23 1zm-14 2zm-18-7zm-1 9zm-1 1zm0-6zm-70-3zm-11 15zm5-3zm12 3zm2-4zm0 4zm26 0zm9-3zm29 7zm36-7zm1 8zm7-6zm1 5zm4-3zm7-5zm6 3zm1 2zm10 6zm1 3zm-18 5zm0-6zm-2 9zm-1-5zm-9-4zm-22 2zm-22 7zm-30 0zm-3-5zm-17 1zm-3 4zm-7-2zm-9 7zm37-3zm12 7zm21-3zm1 2zm4-2zm8-4zm21 5zm29-3zm12 3zm4-2zm6 4zm1-5zm5 6zm-29 5zm-2 9zm-2-5zm-12 3zm-8-6zm-22-2zm-20 4zm-8 3zm-18 0zm-13-5zm-16 4zm26 9zm74 3z"/>
<path id="h2_8" d="M862 2714zm-12 17zm-39 4zm-322 9zm310-4zm11 4zm33-6zm6 9zm-16 4zm-2 4zm-54-3zm-13 5zm-165 0zm-48 0zm-118 2zm-23 11zm31-6zm6 6zm2-9zm69 8zm39 1zm35-4zm52-3zm2 4zm39 0zm3-4zm45 7zm17-4zm5 1zm7 1zm4 0zm6 2zm69-1zm11-4zm-17 13zm-29-4zm0 7zm-14-5zm-28-4zm-7 11zm-15 0zm-23-4zm-8 3zm-1-9zm-60 1zm-17 2zm-56-3zm-6 2zm-25-2zm-23 5zm-22 3zm-61-4zm-35-5zm-15 3zm2 10zm3 0zm51 3zm30 4zm71-3zm14 3zm6-7zm141 7zm17 2zm16-9zm80 9zm5-9zm7 1zm-15 15zm-18 3zm-65 0zm-38-3zm-59 4zm-68-7zm-14-1zm-23 8zm-2-1zm-82-4zm9 19zm69-3zm15-6zm56 4zm38 2zm17-4zm31-3zm47 7zm0-4zm6 3zm7-3zm18-4zm48 2zm4 1zm29 1zm2 3zm-43 5zm0 5zm-22 0zm-16 4zm-3-2zm-2 2zm-39-4zm-59-4zm-17 0zm-8 10zm-20-4zm-8 3zm-90-10zm-54 9zm-84 10zm27 1zm59-3zm5 2zm4-5zm7 0zm69 5zm14 0zm14 3zm25-4zm13-4zm2 7zm29-7zm5 1zm11 0zm24-2zm10-1zm2 2zm50 0zm1 5zm13-3zm29 5zm3-8zm3 4zm4 2zm24 0zm5 1zm-1 4zm-3 10zm-4-3zm-14-5zm-10 4zm-13-2zm-10 3zm-1 3zm0-2zm-9-8zm-20 10zm-5-2zm-27-3zm-21-2zm-3-3zm-110 9zm-1-5zm-41 1zm-6 5zm-5-1zm-24-9zm-11 9zm-2-8zm-34 8zm-22-2zm-6 3zm-27-3zm-10-4zm15 19zm28-5zm3 6zm35-1zm127 1zm52-7zm32 2zm8 5zm24-6zm20 6zm1-4zm4 3zm10-1zm32-8zm18 1zm3 8zm8-9zm-35 14zm-93-3zm-15 9zm-16-4zm-17 6zm-1-2zm-12-1zm-6-6zm-23 3zm-20-2zm-3-1zm-4 3zm-23 4zm-12-7zm-18-1zm-54 5zm-6 11zm27-4zm17 3zm2 0zm4 2zm57-4zm15 7zm2-9zm76 1zm25 2zm28 8zm4-2zm7-8zm7 7zm41-3zm22 0zm16 15zm-48-3zm-32 0zm-19 0zm-2-4zm-28 1zm-42 3zm-7 2zm-3 3zm-36-10zm-5 0zm-7 3zm-1 0zm9 13zm4-4zm24 9zm3-2zm6-1zm30 3zm22-8zm2 4zm17 3zm1-5zm12 8zm33-2zm17-2zm2 2zm16-6zm41 6zm-83 13zm-27-7zm-30 3zm-34 3zm-2-6zm-11-3zm-34 13zm5 10zm24-2zm1-2zm9 1zm29-1zm2-6zm13 4zm15 2zm34-5zm27 3zm27-1zm21 6zm4 13zm-63-10zm-1 2zm-45-2zm-25 1zm-16 0zm-12 0zm-29 5zm0-4zm-38 7zm32 13zm15-10zm1 2zm6 4zm3 4zm2-9zm44 0zm25 4zm39-3zm1-3zm11 7zm4 0zm-14 15zm-3-6zm-10-2zm-9-1zm-1 2zm-24 4zm-7 2zm-4-8zm-37 2zm-18 3zm-6 2zm-2-2zm-5 0zm-3 2zm-8-2zm10 11zm3 5zm29-8zm5 2zm3 1zm0-4zm8 7zm15-6zm2-2zm2 10zm1-5zm23 0zm10 3zm3 2zm35 2zm-11 3zm-61 0zm-6 3zm-5-4zm-8 8zm-10-10zm-5 1zm-4 9zm4 12z"/>
<path id="h2_9" d="M835 2734zm-311 1zm308 1zm12 11zm14 0zm-25 12zm-1-5zm-1-5zm-17 4zm-45 1zm-105 2zm-45 1zm-25 1zm-14 1zm-1-1zm-187 10zm67-5zm30 0zm73 5zm24 0zm6-4zm24 3zm30 4zm1-1zm105 1zm11 0zm15-5zm13-4zm11 7zm26-4zm5 11zm-13-3zm-13 2zm-13 1zm-11 3zm-31-5zm-7 6zm-32 3zm-91-2zm-55 2zm-50-1zm-26-1zm-35-3zm-8-4zm-63 21zm32-11zm10 3zm3 0zm44-3zm32 4zm22 7zm28-2zm10-8zm136 8zm30-3zm9-5zm0 3zm19-3zm5 9zm4-3zm11-5zm11 7zm63-2zm-50 6zm-15 10zm-11-3zm-68-6zm-144 0zm-66 3zm-97-2zm-4 6zm86 8zm66 5zm60-10zm0 10zm26-9zm3 6zm4-4zm31 4zm21 4zm1-1zm84 1zm5-10zm4 4zm8 0zm5-2zm26 9zm-9 8zm0-6zm-32 4zm-29 4zm-4-7zm-68 3zm-7 3zm-43-5zm-74-1zm-10-1zm-64 5zm-50-6zm-52 4zm-16 12zm61-1zm53 7zm155-6zm47 4zm60-6zm47-1zm29 12zm0 7zm-69-8zm-3 3zm-25 1zm-9-4zm-45-1zm-3 3zm-16-1zm-32 9zm-30-4zm-6 3zm-32-6zm-2 6zm-169-10zm50 22zm72 0zm26-3zm12 4zm35-2zm44 0zm64-8zm30 2zm32 7zm5-3zm5 0zm33 4zm11-8zm3 0zm7 1zm-2 14zm-7-6zm-8 8zm-43-4zm-2-1zm-1-3zm-30 5zm-3 3zm0-1zm-19 0zm-21 0zm-6-2zm-73-3zm-86 8zm-16-5zm-21-4zm-18 4zm-16 0zm30 9zm55-1zm35 6zm6-2zm24 0zm26-5zm109 3zm8-2zm8 2zm21 3zm22 4zm7-7zm21 6zm-83 7zm-2 5zm-19-9zm-8 5zm-14-2zm-2 2zm-78 1zm-12-3zm-5 6zm-15-9zm0 5zm-98-5zm124 16zm33 5zm89-7zm81-2zm-48 23zm-50 0zm-18 0zm-25-9zm-55-2zm-8 5zm-16 17zm2-8zm8-2zm11 11zm25-4zm6 1zm21-2zm0-3zm26 6zm8-1zm65 0zm-89 6zm-23 8zm-24-4zm34 7zm25-1zm10 2zm27 4zm23-6zm56 6zm-79 16zm-44-7zm-25 0zm-20 0zm-4 7zm-7-9zm-1 1zm16 11zm1 0zm25 0zm38 10zm30-8zm4-2zm35 6zm-24 15zm-31-7zm-18 8zm-17-7zm-24-1zm-6 5zm-14-3zm-16-1zm57 10zm64-1z"/>
<path id="h2_10" d="M577 2728zm-7 3zm-47 13zm20-3zm9 4zm13 0zm9-4zm14 4zm175-4zm84 18zm-2-10zm-3 8zm-9-4zm-1-2zm-6-1zm-44 9zm-27 0zm-4 0zm-87-7zm-66 6zm-4-5zm-3 3zm-33-5zm-70 7zm-9-2zm-17-6zm-7 2zm-15 16zm53 0zm43 0zm7 1zm57-6zm135 0zm43 1zm52-1zm11 17zm0-5zm-22-2zm-13 8zm-63-4zm-14-5zm-6 5zm-6 2zm-65-2zm-14-1zm-3 0zm-10 0zm-49 5zm-46 0zm-122-4zm27 9zm0 0zm146-1zm38 6zm1 3zm62-4zm24 4zm58-2zm6-5zm25-1zm16-1zm15 8zm11-5zm13-2zm0 5zm7-7zm-18 16zm-115-3zm-9 10zm-13 0zm-31-1zm-11 0zm-2-6zm-13-1zm-53 3zm-13-3zm-188 17zm198-3zm32-5zm57 9zm10-5zm11-4zm37 8zm39-7zm44 1zm4 7zm-69 8zm-18 0zm-17 4zm-1 2zm-3-4zm-65-2zm-2 1zm-30 4zm-7-2zm-10 1zm-50-3zm-6 4zm-3-8zm-57-2zm-102 4zm-21 18zm28-7zm30 5zm54-5zm18 7zm5 1zm39-9zm59 6zm20 0zm22-6zm19 0zm10 6zm12-7zm7 3zm1-4zm61 11zm3-10zm3 2zm27 1zm20-3zm6 0zm0 4zm4 3zm4-7zm2 21zm-23-5zm-2 6zm-22-9zm-28 8zm-14-2zm-138-7zm-101 3zm-6 7zm-47-5zm-18-4zm-4-2zm-20 1zm121 19zm46 1zm5-9zm27 2zm1 5zm0-5zm3-1zm30 10zm33-5zm10-2zm41 3zm26-7zm2 8zm13 2zm13-9zm5 0zm18 1zm25 9zm-2 1zm-35 9zm-24-5zm-19-3zm-24 0zm-16 0zm-1 1zm-5 6zm-40 1zm-7-3zm-4-6zm-4 10zm-13-5zm-104 0zm-18 6zm-50-9zm28 18zm75-8zm36 11zm45-6zm34 1zm12 2zm13-8zm13 6zm7 5zm24-10zm6 2zm19 4zm15 0zm0-6zm15 14zm-47 0zm-5 5zm-4 3zm-109-11zm-9 11zm-2-10zm-48 6zm-72 0zm84 16zm86-10zm15 3zm15-2zm17-2zm0 7zm12 3zm12 1zm11-2zm3-9zm9 2zm6 4zm22 5zm15-2zm4 4zm-6 8zm-4-6zm-32 5zm-13 0zm-3 0zm-4 2zm-38 0zm-38 0zm-3-4zm-7 5zm-35-10zm-8 1zm-20 8zm-10-3zm-2 13zm7-8zm18 7zm96-4zm16 1zm25 6zm1-1zm4-8zm0 10zm32-8zm1 6zm30-6zm-54 10zm-67 8zm-10-7zm-12-1zm-52 2zm-17 10zm61 3zm5 7zm20-8zm23-1zm23-1zm11 10zm16-11zm32 9zm-14 7zm-89-1zm-2 6zm-15-4zm-4-4zm-4 0zm0 4zm-23 5zm-6-1zm-4 2zm-22-4zm-4 1zm24 9zm18 2zm28-6zm7 4zm9 6zm2-6zm5 1zm45 0zm-75 10zm-23-2zm26 16zm8-6z"/>
<path id="h2_11" d="M831 2725zm-2 6zm-258-5zm1 15zm219 6zm41-11zm7 6zm13 17zm-20-9zm-2 2zm-8 0zm-10 2zm-15 3zm-14 0zm-43-2zm-227-4zm-65 2zm-11 6zm-2 8zm34-5zm2 0zm13 0zm92-1zm114 3zm94 4zm27-7zm26 9zm19-2zm-70 7zm-34-1zm-6 0zm-24-2zm-16 10zm-79-9zm-7 4zm-63-1zm-31-3zm-61 13zm14-2zm96 2zm22 7zm43-6zm10 7zm2 1zm22-10zm84 9zm8 0zm15-6zm16 6zm23 0zm17-8zm-10 18zm-2 0zm-10-4zm-150 5zm-59-1zm-62-2zm-11 0zm-137 9zm1 0zm60 1zm10 2zm152 4zm2-8zm11 6zm7-3zm2-3zm2 1zm54-2zm44 3zm11 0zm15 1zm16-5zm4 10zm7-9zm4 4zm17 2zm30-2zm-53 15zm-7-1zm-35 3zm-5-7zm-30-3zm-32 11zm-11 0zm-11-3zm-8-3zm-6-4zm-5 2zm-2 1zm-3 2zm-24 0zm-24-2zm-12-2zm-11 5zm-27-3zm-20 0zm-148 19zm89-5zm29 2zm28 3zm16-10zm70 6zm8 1zm20 3zm1-7zm15 2zm32-3zm4 2zm29-3zm9 7zm32 0zm8-1zm14 2zm17 0zm13 4zm-27 2zm-3 3zm-134-5zm-2-1zm-19-1zm-13 4zm0-4zm-2 11zm-4-11zm-43 5zm-14-3zm-4 7zm-50-8zm-53 1zm-17 8zm0-6zm-37 3zm106 11zm15-2zm39 2zm7 0zm19 0zm32 4zm7-3zm68-2zm23-1zm49-2zm24-2zm23 3zm14-3zm2 10zm13-1zm3 0zm-32 8zm-5-5zm-1 11zm-10-10zm-5 1zm-6 1zm-15 1zm-55 1zm-109 6zm-7-2zm-36-9zm-18 11zm-2-8zm-83 0zm-11-3zm38 15zm38 8zm105 0zm32-2zm18-1zm27 1zm0-8zm16-1zm82 11zm6-10zm18 1zm-14 19zm-67-5zm-8-1zm-20 6zm-1-6zm-9-3zm-12 2zm-3 5zm-75-7zm-70 2zm-70 8zm-6-5zm130 13zm7-4zm3 5zm14-1zm4 3zm22-6zm43-1zm9 9zm4-9zm3 8zm33-9zm26 10zm28-6zm-15 9zm-25 8zm-4 0zm-152 6zm50-1zm41 5zm38 3zm17-7zm30-1zm13 4zm3 3zm17-6zm9-2zm9-1zm-17 20zm-34-8zm-28 8zm-10-9zm-24 4zm-16-3zm-63 8zm-20-6zm25 10zm12 3zm3 6zm20-2zm32-2zm13 5zm3-4zm64-3zm-10 16zm-59-2zm-4-2zm-2-4zm-14 7zm-6 3zm-70-1zm12 9zm15-4zm0 2zm96 7zm29-8zm5 0zm24 2zm-69 12zm-45-1zm-39 18zm79-6z"/>
<path id="h3_0" d="M843 2683zm-32 15zm30-6zm5 9z"/>
<path id="h3_1" d="M846 2670zm5 28zm-49 2zm-36 7zm30 5zm-19 28z"/>
<path id="h3_2" d="M755 2694zm21 9z"/>
<path id="h3_3" d="M757 2726z"/>
<path id="h3_4" d="M765 2699zm49-2zm28 11zm-15 2zm-63 18z"/>
<path id="h3_5" d="M753 2681zm26 12zm90 17z"/>
<path id="h3_6" d="M873 2674zm-26 25z"/>
<path id="h3_8" d="M845 2668z"/>
<path id="h3_11" d="M775 2689z"/>
<path id="h4_0" d="M940 2632zm-37-4z"/>
<path id="h4_2" d="M929 2624z"/>
<path id="h4_3" d="M934 2632z"/>
<path id="h4_4" d="M909 2619z"/>
<path id="h4_6" d="M911 2610zm13 16z"/>
<path id="h4_7" d="M908 2642z"/>
<path id="h4_8" d="M926 2636z"/>
<path id="h5_0" d="M1026 2590zm-5-2zm-12 4zm17 3zm3-3zm11 0zm2 10zm1-2zm2 3zm4-2zm2 0zm7 1zm37 11zm-1 0zm-30-3zm-2-2zm-2 7zm-26-6zm-25 4zm-3-5zm-5 7zm-3-2zm-6-2zm-3 2zm-2 7zm2 2zm5 1zm0-6zm3 10zm0-7zm30 0zm10-3zm6 10zm1-2zm2 0zm2-2zm1 2zm3-9zm2 8zm1-5zm1-3zm3 5zm0 3zm1-5zm1 5zm1 0zm1-8zm1 5zm2 4zm19 2zm4 0zm3-8zm0-2zm1 8zm1-5zm10 4zm2-4zm4 6zm9-1zm6-7zm18 7zm6-1zm3 1zm2-3zm2-2zm-30 13zm-13 6zm0-11zm-7 9zm-1 2zm-1 0zm-2-9zm-1 4zm-4 4zm0-6zm-6-2zm-2 4zm-23-5zm-7 2zm-5-1zm-1 0zm-4 0zm-4 1zm-1 5zm0 0zm-7-6zm-3 5zm-1-7zm-1 8zm-16-7zm-2 1zm-1-1zm-3 0zm-2 0zm-1 8zm-4-3zm-11-4zm0 3zm-7-2zm-3 8zm0-5zm-11 2zm-30 3zm41 3zm17 8zm1-9zm4 4zm8 1zm7-5zm1 6zm2-6zm2 7zm6-3zm0-3zm0 0zm9 1zm7 2zm14 4zm4-6zm0-1zm14 2zm3 6zm4-10zm14 0zm6 8zm2-1zm17-3zm10 2zm1-4zm3 9zm9-2zm1 1zm-2 3zm-43 4zm-1-5zm-4 10zm-9-9zm-1 1zm-3 1zm-25 3zm-4-5zm-3 9zm-8-10zm-1 1zm0 2zm-4-1zm-5 0zm-10 7zm-4-3zm-1 5zm0-1zm-3 1zm2 4zm9 2zm0-2zm1 7zm1-8zm5-1zm2 8zm1-2zm3 3zm1 1zm0-7zm1 5zm1 0zm0-4zm3 1zm0-2zm2 1zm48 1zm1-2zm2 1zm1 2zm2-2zm0-3zm0 4zm2-6zm1 5zm2-2zm38 4zm-109 8z"/>
<path id="h5_1" d="M1037 2588zm-9 0zm-11 2zm-11-1zm-1 1zm23 6zm7 4zm1-1zm2 3zm0-8zm2 1zm3-1zm1 1zm1 4zm22 9zm-3 3zm-4-5zm-3 0zm-1 3zm-2 2zm-2 1zm-14-2zm-36 2zm-3 1zm-1-3zm-4 16zm5 0zm2-4zm16 5zm0-3zm14 0zm4 2zm7-3zm6 1zm12-6zm1-2zm5 11zm44-8zm4 2zm4-1zm14 2zm-2 6zm-16 8zm-3-1zm-8 0zm-3 0zm-8 2zm-1-7zm0 7zm-8-4zm-2-1zm-15 2zm-11 0zm-13-6zm-1 2zm-6-2zm-7 2zm-9 3zm-11-4zm-2 1zm-1 3zm-11 0zm0 6zm-9-2zm-14-9zm-28 11zm-2 2zm4-1zm54 2zm7 2zm14 4zm11 2zm1-10zm6 7zm10 2zm1-4zm5-1zm1 0zm11-3zm18 7zm17-8zm2 3zm2-3zm41 13zm-1 0zm-6 0zm-33 2zm-7-2zm0 1zm-3 8zm-4 0zm-4-5zm-48 6zm0-4zm-8 4zm-3-5zm-9-4zm-5 1zm4 9zm7 0zm4 1zm1 2zm3-3zm1 8zm1 3zm0-7zm1 6zm2-2zm1-1zm0-1zm0 0zm1 3zm5-6zm2-1zm5 2zm11 5zm1-8zm34-1zm9 6zm-68 15zm-1-8z"/>
<path id="h5_2" d="M1019 2587zm-15 11zm1-3zm0 1zm24-3zm22 0zm114 20zm-8 2zm-92-2zm-3 0zm-4 2zm-52-2zm-2-8zm-2 5zm0 5zm0-4zm0-5zm-2 3zm-1 5zm-9 13zm4 0zm1-4zm1 2zm4-9zm10 10zm21-1zm6-5zm16 1zm2-4zm4 10zm24-2zm10-8zm26 0zm20 9zm2 0zm10 0zm-22 11zm-21-4zm-4 5zm-4-5zm-14 3zm-41-5zm-27-2zm-8 7zm-8-4zm0 4zm-5 1zm-2-8zm-2 6zm-15 1zm-1 1zm-14-8zm-2 1zm-5 4zm-1 3zm-3 2zm0-6zm50 11zm16-2zm0 4zm0 1zm4 4zm18-11zm8 6zm16-1zm5-5zm16 9zm20-2zm22-2zm22 0zm-46 16zm-13-1zm-5-7zm-29 4zm-3-5zm-2 0zm-8 8zm-2-2zm-17-5zm-2 10zm-3-3zm7 4zm2 4zm4 1zm3 0zm1 1zm3-2zm4 4zm5 0zm4-6zm46 0zm3-2zm1 7zm4 0z"/>
<path id="h5_3" d="M1006 2602zm16-8zm0 0zm5 2zm15 1zm1-3zm3 3zm0-3zm2 1zm110 19zm-102-3zm-1-4zm-6 6zm-7-7zm-2 8zm-3-1zm-30-2zm-5-6zm-11 2zm-29 20zm6-1zm20-9zm5 9zm2-2zm3-2zm8-4zm3 0zm34 7zm7-3zm0-1zm2 4zm1-2zm40 2zm39 1zm4 1zm14 9zm-35 3zm-19-6zm-1-1zm-21 2zm-3-3zm-2 5zm-21 2zm-3-9zm-24 4zm-1-4zm-2 8zm-19-5zm-4 4zm-3-2zm-1 3zm0-2zm0-6zm-35 4zm25 8zm7-1zm29 5zm83-2zm4 4zm26-7zm1 0zm19 13zm-41-1zm-3 2zm-37-2zm-7 11zm-7-1zm-4-7zm0 3zm-14 1zm-17 5zm1 2zm4-2zm0 5zm8 0zm3 2zm2 3zm2 1zm3 0zm3-11zm3 2zm5 1zm2 2zm47 3zm2-1zm1-4zm-67 15zm-2-4zm-2-2z"/>
<path id="h5_4" d="M1021 2587zm-5 3zm-21 0zm9 7zm1-2zm31 8zm6-11zm0 1zm2 9zm1-1zm48 13zm-27-4zm-5-1zm-5 4zm-49 2zm-1-9zm-20 14zm25 2zm15 5zm12-7zm9 5zm1-3zm46-2zm18 1zm12 1zm20 4zm12-8zm-50 13zm-5 5zm-3-7zm-6 3zm-7-3zm-3 8zm-8-1zm-6-5zm-28-2zm-5 0zm-5-1zm-19 1zm-12 9zm-53 3zm65 2zm9 3zm6 5zm1-8zm22 4zm33 1zm67 4zm-9 0zm-5 2zm-38 9zm-5-4zm-2-3zm-30 7zm-10-10zm-10-1zm-1 4zm-5 4zm-10-8zm4 17zm1 2zm8 2zm2-6zm1-1zm2 5zm4-3zm0-1zm1-3zm3 3zm0 2zm1 4zm11-9zm37 3zm0 3zm6-3z"/>
<path id="h5_5" d="M1002 2601zm2 0zm43-7zm-7 10zm-29 11zm-4-5zm-4-3zm-1 4zm-1 2zm-2-4zm-7 3zm-29 15zm53 0zm27-4zm8 4zm1-11zm3 3zm50 1zm15-4zm38 0zm7 4zm-37 12zm-25 5zm-4-1zm-4-3zm-100-3zm-14 3zm-1 4zm-3-7zm-9 0zm15 12zm43 9zm19-11zm0 2zm12 8zm10-10zm36 1zm25 5zm6 2zm2 11zm-117-3zm3 11zm22-2zm5 3zm7 5zm44-4zm1-2zm33 8zm-87 1zm-7 0z"/>
<path id="h5_6" d="M1017 2588zm-12 15zm27-9zm11 6zm3-7zm55 19zm-8 3zm-24-7zm-8 6zm-50-10zm-6 1zm-4 1zm-1 3zm-1 7zm5 0zm32 11zm77 4zm-4 6zm-22-1zm-5-7zm-1 2zm-28 1zm-16-4zm-30 4zm-5-1zm-52 8zm89 5zm12 1zm0 5zm8-6zm12-2zm9 5zm2 2zm1-7zm0 7zm21 1zm4-10zm24 8zm-24 7zm-7 2zm-15-1zm-29 1zm-3 6zm-4-2zm-21-6zm-4 7zm-1 2zm1 3zm3 5zm7-3zm4 4zm4-3zm7 2zm47-8zm0 3zm4 2zm5-2zm-67 11z"/>
<path id="h5_7" d="M1011 2591zm-3 4zm29 7zm8 1zm1-6zm104 11zm-26 7zm-59-1zm-28-7zm-15 2zm-16 2zm-1-7zm-3 9zm-13 13zm1-1zm3 1zm60-5zm33 5zm6-2zm12 1zm7 7zm-9-1zm-30 6zm-79-1zm-3 0zm0-8zm-18 0zm-19 10zm57 5zm12 6zm26-1zm72-7zm-15 20zm-15-1zm-40 2zm-5 1zm-42-10zm20 16zm15 1zm27-5zm35 0zm2 4zm3-1zm-65 8z"/>
<path id="h5_8" d="M1018 2592zm2 1zm33 6zm2 10zm-49 2zm-9 2zm31 11zm78 9zm-2 6zm-2-4zm-4 2zm-6-7zm-5-2zm-10 3zm-6 1zm-71-3zm-3 8zm-14-1zm60 7zm59 0zm20-1zm-24 20zm-7 0zm-35 1zm-15-11zm-3 9zm-13-8zm-4 10zm-4-4zm11 10zm12 3zm11-6zm47-2z"/>
<path id="h5_9" d="M1023 2590zm-15 12zm28 7zm89 18zm-118 7zm-48-2zm41 8zm34 9zm18-5zm100 8zm-48 6zm-11 3zm-32-2zm-21-1zm-6 0zm12 12zm0-4zm56 5zm1-6zm6 5zm-44 6z"/>
<path id="h5_10" d="M1006 2602zm30-8zm3-2zm122 22zm-139 9zm139 14zm-32-1zm-118 1zm-26-3zm-1-5zm44 18zm19 3zm14-5zm24 2zm22 4zm8-11zm-33 13zm-30 2zm-3 6zm-22-6zm-5 6zm-9 3zm5 1zm15 5zm12 0zm57-2zm46-3z"/>
<path id="h5_11" d="M1047 2591zm12 16zm-41 0zm-14 4zm-17 13zm142 3zm5 0zm-30 6zm-2 3zm-44-5zm-14 6zm-59 5zm56 2zm3 6zm58-8zm23 3zm-87 10z"/>
<path id="h6_0" d="M1099 2482zm4 0zm45-1zm4 2zm1-4zm5 3zm10 7zm-4 2zm-1 3zm-1-8zm-1 2zm-3 1zm-6-1zm-1 7zm-4-5zm-1-4zm-1 5zm-8 4zm-1-4zm0 1zm-3-2zm-1-3zm-1 1zm-32-4zm-2 3zm-12 11zm17 3zm1 6zm1-4zm15 3zm13-9zm2 5zm2 5zm1-9zm5-2zm6 3zm2-2zm10 9zm2-1zm2-9zm3 9zm0-2zm0-3zm4 5zm4 9zm-4-5zm-14 1zm-1 5zm-1-5zm0 3zm-3-4zm-4 0zm0 0zm-2 5zm-1 5zm-4-7zm0-1zm-10 7zm-15-4zm-2 4zm-37 0zm14 10zm6-3zm4-3zm5 0zm5-2zm1 7zm22 3zm4-9zm7 2zm1-1zm20 5zm5-7zm2 2zm2 1zm0 5zm0-4zm2-3zm2 0zm2 5zm11 0zm4 5zm2-4zm8 16zm-3-8zm-2 0zm0-2zm-1 2zm-14 7zm-4-10zm-9 11zm-2-10zm-10 2zm-8 0zm-5-1zm0 5zm0 2zm-12-4zm-1 3zm-4 2zm-1 1zm-7-11zm-15 3zm-2 1zm-9 1zm-1 0zm-3-3zm-1 4zm-1 0zm-4 2zm-5 0zm-2-5zm-7-1zm-6 9zm5 12zm6-9zm3 6zm4 1zm2-6zm2-2zm5 10zm1-3zm7-7zm1-1zm1 0zm4 7zm10-6zm6 0zm16 2zm2 4zm9 3zm1-4zm1 0zm0-3zm3-1zm0 0zm4 9zm13-7zm3 0zm0-3zm2 2zm3 1zm2-4zm2 4zm2 4zm1 2zm7-3zm4-3zm0 7zm1-5zm1 2zm8-6zm9 16zm0-1zm-3 3zm-2-8zm-1 2zm-1 3zm-5-2zm0-2zm-2 7zm-2 3zm-1-9zm-1 7zm-6-7zm-3 2zm-1-3zm-2 9zm-4-9zm-9 0zm-2 10zm-7-3zm-4 2zm-9-7zm-3-1zm-2 9zm0-3zm0-3zm-4-5zm-1 3zm0 2zm-2-3zm-2 5zm-1 4zm-3-11zm-7 10zm-3-1zm-5 2zm-32-6zm0-2zm-6 0zm-1 2zm-1 3zm-15 1zm0 2zm-1-9zm-1 8zm-2-3zm-6-1zm-7 9zm1 7zm0-8zm6 4zm2 5zm3-6zm3-4zm6 1zm5 6zm8 1zm2-3zm14 3zm12-6zm10 8zm0-5zm1 0zm6 2zm12-3zm1 3zm8 0zm3-8zm8 5zm2 2zm7-2zm1 2zm3 3zm5-9zm0 10zm0-1zm4-1zm3-8zm4 6zm2-2zm1-4zm4 1zm2 7zm4-5zm0 0zm4 7zm2-5zm0 1zm0-1zm1 0zm2 3zm1-9zm17 12zm-2 1zm-1 3zm-6 4zm-4-1zm-1-4zm-10 6zm-1-7zm0 7zm-2-7zm-2 8zm-2-6zm-2 4zm-1 1zm-3 0zm-2-3zm-12 2zm0-3zm-2 3zm-1-2zm-1-4zm-7 9zm-15-8zm-2-2zm-4 9zm-6-6zm0 3zm-2 4zm-2-10zm-1 2zm-4 4zm-5-1zm-9 5zm-7-2zm-10-9zm-45 0zm-13 0zm34 16zm23-1zm5 3zm9-6zm0 4zm0-3zm4 3zm3-3zm0 0zm9 8zm4 0zm0-9zm6 4zm2 2zm2 4zm8-8zm1 6zm0-5zm3 5zm12-3zm5 13zm-1 0zm-4 1zm-6-3zm-2 4zm-1-8zm-3 3zm-1 0zm-5 1zm-1 0zm-25-4zm-15 6zm0-1zm-27-4z"/>
<path id="h6_1" d="M1090 2482zm13 0zm7 1zm27-1zm1 0zm0 1zm6-3zm7 0zm3 3zm5-7zm1-3zm3 8zm8 10zm-11-7zm-2 7zm-2-3zm-4-1zm-1 1zm-2-2zm0 7zm-1-5zm-1 5zm-11 1zm-2-8zm-2 1zm-1 8zm-4-6zm-21-2zm-23 8zm30 8zm29-1zm3 1zm6-6zm2 7zm4 2zm8-9zm4 1zm6 7zm6 9zm-8-3zm-2-3zm-1 6zm-3-1zm0 5zm0-2zm-3 0zm0 1zm-6-7zm-12-2zm-3 6zm-1-1zm0 6zm-9-11zm0 0zm-4 7zm-8-3zm-9-1zm-1 8zm-37 10zm14 0zm6-3zm17 0zm7 4zm21-4zm8-3zm2 8zm17-10zm0 1zm3-1zm4 2zm2 0zm9-1zm11 9zm3-2zm1 2zm1-1zm-1 10zm-12-6zm-8 9zm-8-4zm-1-6zm-25 10zm-38-3zm0-2zm-2 5zm0 0zm-8-1zm-2-5zm-2-5zm-2 9zm-4-4zm-8 13zm7-6zm10 3zm2 2zm34-2zm4-2zm2 10zm0-6zm8-5zm1 10zm2 0zm13 1zm3-10zm9 2zm1-1zm0 4zm12 3zm2-5zm0 5zm4 1zm0 1zm2 0zm1-10zm3 10zm1 0zm2 0zm4-6zm1-1zm12 18zm-1-6zm-4 0zm-1 3zm-1-4zm-3 4zm-3-6zm-1-1zm0 4zm-1-3zm-6 7zm-6-4zm-1 6zm-1-3zm-8-7zm-1 10zm-10-2zm-1-3zm-6-2zm-1 1zm-1-4zm-10 6zm-6-5zm-7 3zm-5 1zm-2 5zm0-8zm-26 3zm-2 2zm-8-1zm-10-3zm-2 1zm-4 1zm-7-4zm-18 10zm-2 0zm-4-2zm-3-4zm-6 13zm3 0zm7 2zm0-1zm1-4zm1 7zm4-7zm11 2zm0-3zm6 6zm2-1zm1-5zm4 4zm1 0zm1 3zm3-7zm0 3zm2-1zm2 6zm8-2zm3-8zm19 10zm2-4zm1 3zm8-5zm5 7zm1-1zm5-3zm13-7zm6 0zm5 6zm4-2zm2 4zm3-1zm3 1zm3-8zm10 2zm2 1zm1 0zm5-2zm4 0zm4 8zm2-7zm3 1zm1 5zm0-8zm1 0zm2 11zm4-1zm5-9zm1 5zm2 4zm-12 4zm-5 3zm-2-5zm0 6zm-1-6zm0 10zm-1-10zm-1 1zm-1 8zm-16-7zm-9 3zm-3-4zm0 2zm-2-2zm-8 7zm-6-3zm-7 3zm0 0zm-14-5zm-8 5zm-3-5zm-4 1zm-9-2zm-7 3zm-10-1zm-3-4zm-1 9zm-10-2zm-9-5zm-5 7zm-1-6zm-5 1zm-2-3zm34 11zm24 0zm7 7zm3 0zm6-6zm3 6zm3-4zm0 4zm6-3zm1 0zm2 2zm0 3zm20 7zm-1-4zm-1 5zm-1 2zm-3-1zm-5-1zm-2-3zm-5-1zm-33 0zm-19 3zm-3 1zm-10-3z"/>
<path id="h6_2" d="M1095 2482zm50 1zm2-5zm10-4zm8 14zm-3-4zm-6 3zm-4 1zm-2 0zm-10 7zm-4-6zm-2-4zm0 2zm-5 3zm-2 0zm-23-4zm-13 1zm2 18zm21 0zm1 2zm14-2zm4-8zm4 7zm17 1zm14-5zm3-1zm3 6zm1 2zm0-4zm6 12zm-7 2zm-3-4zm-2-2zm-1-2zm-2 4zm-6 2zm-2-4zm0 3zm0-2zm-26 6zm-12-3zm-2 1zm-5 3zm-27-6zm9 11zm11-2zm43 4zm13-6zm4 4zm3 3zm0-6zm1 7zm0-3zm1-5zm0 1zm6 1zm1 1zm2 5zm3-8zm0 8zm0-6zm16 7zm-2 6zm-2 5zm-8 0zm-1 3zm-1-9zm-4-1zm-2 3zm-7 0zm-1 5zm-3-8zm-8 1zm-3 4zm-6-1zm-19 6zm-4-1zm-19-6zm-6-1zm-2 4zm-5-5zm-3 1zm0 5zm-1 1zm-1-2zm-3 3zm-1-3zm-18 15zm3-8zm7 2zm15-3zm10 10zm23-11zm1 4zm3 5zm0-7zm6 1zm19 1zm3 3zm3 2zm9-7zm2 1zm0 2zm6-1zm12-3zm4 3zm5 2zm4 4zm0-3zm16 11zm-3-3zm0 4zm-1-1zm-1 2zm-4-7zm-1 3zm0 0zm0 4zm-7-8zm-1 0zm-7 5zm-2 5zm-1-8zm-3 9zm-1-5zm-30-2zm-2-4zm-1 4zm-4-3zm0-1zm-7 3zm-1-3zm-4 2zm0-1zm-5-1zm-40 2zm-12 0zm-5 4zm-27 2zm-8 12zm7-3zm4 3zm2 3zm6-7zm12 6zm10-2zm1 3zm2-10zm25 0zm3 5zm5-4zm2-2zm0 11zm22-11zm3 2zm14 1zm9-1zm7 9zm8-11zm0 6zm1-4zm2-2zm3 6zm10 5zm5-1zm1 1zm4-9zm1 1zm1-3zm2 6zm1 0zm0-5zm7 1zm0 10zm-8 3zm-3 2zm-3 2zm-6 2zm-13-1zm-2-3zm-17 5zm-2-2zm-9 3zm-4-4zm-5 1zm-1-3zm-5 6zm-2-1zm-1-2zm-8 0zm-3 0zm-3-3zm-3-3zm0 8zm-4-9zm-2 1zm-7 2zm-12 7zm0-3zm0-7zm-25 3zm-8 9zm44 9zm7-10zm2 2zm3 8zm10-5zm2 6zm1-4zm3-3zm0 1zm0-1zm6 4zm2 3zm11-7zm0 2zm16 9zm-7 4zm-21-3zm-2-2zm-34-2zm-13 1zm-11 1z"/>
<path id="h6_3" d="M1089 2481zm5-1zm52-2zm5 0zm8 5zm2-3zm12 14zm-2-5zm-7-5zm-3 2zm-2 3zm-3 0zm0 3zm-1-7zm-13 1zm-5 0zm-9 4zm1 7zm9 1zm10 3zm8 2zm14 0zm4 2zm0 6zm0-3zm-8 1zm0 1zm-3 6zm-22-2zm-15 2zm-5 2zm-2-3zm-44-1zm19 16zm62-8zm9-1zm4 7zm1-6zm0-2zm0 0zm11 10zm8-6zm7 4zm1 2zm0 0zm3-2zm3 2zm4 12zm-6-7zm-5 1zm-21 2zm-3-3zm-5-1zm-2 0zm-16 3zm-9 1zm-3-2zm-21 2zm-19-2zm-7 1zm-4 5zm-6-2zm-13 14zm11-10zm12 4zm4 4zm2-1zm3-5zm31 4zm2 4zm6 1zm3-6zm3-4zm5 2zm2 8zm34-6zm1-3zm1 1zm0 1zm1 0zm3-4zm1 1zm4 0zm3 6zm2 1zm1-5zm0 7zm9 0zm7 10zm-3-4zm-3 0zm-2-2zm-1 4zm-3 3zm-2-4zm-9-4zm-1 1zm-3 7zm-2 1zm-1-4zm-11 5zm-7-4zm-21 2zm-1-7zm0-2zm0 9zm-9 0zm-4 1zm-13-1zm-42-2zm-41 13zm1-6zm1 1zm1 4zm4-4zm2 3zm9-3zm9 4zm5-3zm7 1zm1 5zm1-1zm13-2zm4 2zm21-9zm3 0zm8 2zm16-1zm6 1zm3 5zm2-2zm7-2zm0 4zm11-4zm7 7zm8-10zm1 10zm2-8zm1 1zm6 1zm5 0zm7 3zm1 2zm8 2zm2 0zm-11 3zm-4-1zm-2 3zm-27-2zm0 4zm-6-2zm-15 5zm-2 0zm-2 0zm-3-1zm-6 0zm-7-8zm-7 9zm-1-4zm-2 0zm-7 0zm-4-3zm-2 7zm-3-3zm-4 1zm-6-6zm-1 4zm-11 2zm-10-7zm-2 2zm-17 1zm-17 3zm-2-2zm64 15zm13 1zm8 1zm1 1zm3 0zm1-2zm5-6zm0 0zm5 7zm5-9zm13 4zm41-4zm1 0zm16 1zm-50 18zm-2-3zm-4 0zm-3-2zm0 1zm-3 0zm-15-1zm-19 7zm-14-6zm-8 6zm-2-8z"/>
<path id="h6_4" d="M1157 2478zm6 13zm-4 0zm-9-3zm-1 6zm-5-8zm-65 13zm32 2zm18 2zm9 0zm1-1zm1-1zm1 0zm2 6zm6-10zm27 12zm-2 5zm-5 5zm-12-3zm-16 3zm-14-5zm-6-6zm0 1zm-10 10zm-15 9zm7-7zm5 7zm3-7zm52 10zm5-3zm2-8zm6 3zm6 0zm3 2zm14 7zm-25 4zm-5-3zm-4 0zm-55 1zm-5 8zm-4-8zm-2 5zm-4-4zm-13 5zm-3 0zm-2-1zm-2 3zm-8 10zm8-8zm22 3zm4 2zm2 0zm16-4zm13 10zm8-1zm2-7zm1 2zm3 6zm1-4zm12 3zm15-7zm7-2zm5 6zm4 3zm5 0zm1-9zm0 5zm3 5zm3-5zm0 5zm19 7zm-1-3zm-2 4zm-3-2zm-1-2zm-6 2zm-3 6zm-3-7zm-3 0zm-1 6zm-2-10zm-6 0zm-4 8zm-32-3zm-10-1zm-7-3zm-1 4zm-8 2zm-38-6zm-10 7zm-2 3zm-15-4zm0 4zm-19 5zm2-3zm1-1zm0 5zm7-4zm15 4zm0 0zm2 1zm5-5zm1 9zm9-6zm0 3zm4-6zm19 6zm13 1zm13 2zm8-7zm7 4zm22-6zm0 8zm6-1zm9 3zm1-6zm3-3zm0 9zm18-6zm1 1zm12 4zm-15 5zm-8 8zm-4-1zm-10-8zm-5 2zm-1 2zm-4-4zm-4 7zm-25 1zm-12-5zm-14-4zm-7 5zm-43-2zm-4-3zm43 19zm5-7zm8-1zm4 2zm2 6zm11 3zm2-7zm6-4zm0 1zm2 5zm17-4zm-10 13zm-3 1zm-1-3zm-6-1zm-6 1zm-23 3zm-29-1z"/>
<path id="h6_5" d="M1088 2482zm51 1zm4-3zm7-4zm10 4zm0-6zm5 6zm-7 5zm-4 0zm-4 2zm0-3zm-1 10zm-13-4zm-3-3zm-3 7zm-22-8zm0 6zm2 9zm21-1zm17 1zm26 5zm7 7zm-5 2zm-7-3zm-2 3zm-1 4zm-2-6zm-2 5zm-3-4zm-6-4zm-7 9zm-3-2zm-21-4zm-2-1zm-7 3zm-6 14zm8-4zm55 5zm1-8zm0 8zm1-8zm4 6zm3 3zm17-3zm4-1zm5 12zm-2 3zm-1-8zm-14 2zm-14-4zm-5 1zm-6 0zm-10 2zm-28 7zm-20-2zm-40 0zm40 5zm1 2zm0 6zm52 1zm5-4zm17 3zm7-1zm11-6zm0 2zm4 3zm15 11zm-4 3zm-1 0zm-1 1zm0 1zm-19-6zm-2 5zm-2-2zm-2-8zm-6 2zm-10 4zm-5-3zm-9 8zm-7-8zm-1-2zm0 8zm-2-6zm-39 5zm-31-7zm-19 7zm-6 3zm-7 10zm2-4zm3-3zm17 0zm8 8zm21-1zm20-4zm2 4zm20-3zm3-1zm10 5zm20-8zm1 7zm3-4zm3 5zm17-8zm20 9zm0-6zm6-5zm6 9zm4-3zm-33 12zm-1-1zm-8 5zm-5-6zm-24 0zm-20-4zm-8 7zm-2-1zm-7-3zm-7 0zm-1 7zm-15-3zm-20 1zm-8 0zm-1 2zm-2-7zm61 10zm8 6zm11-2zm49-4zm2 0zm2 1zm-32 16zm-4-4zm-2 2zm-22 3zm-7-5zm-34 5z"/>
<path id="h6_6" d="M1152 2478zm20 17zm-5-5zm-16-1zm-57-5zm-4 7zm26 11zm28 1zm3-5zm1 5zm2-1zm2 3zm15-3zm0 0zm7 13zm-8 0zm-1 2zm-1 0zm-23 2zm-24-2zm-29 13zm57-7zm42 3zm2 2zm3 1zm7 2zm-16 12zm-9-9zm-28 7zm-40 8zm11 1zm10-6zm17 4zm6 2zm0 3zm4 2zm15 0zm13-5zm0 2zm2 3zm13-9zm4 11zm-22 10zm-4-1zm-30-1zm-4-4zm-55 0zm-2 1zm-26-5zm-4 1zm-11 15zm9-3zm3 0zm13 1zm29 2zm35 0zm8 6zm2-7zm3-3zm26 8zm10-1zm2-7zm11 2zm10 2zm7 4zm9 3zm-8 8zm-7 1zm-11 0zm-11 0zm-7-4zm-1 2zm-7 2zm0-7zm-36 9zm-2-1zm-4-8zm0 0zm-3 3zm-1-1zm-11 7zm-1-10zm-44 8zm-4-5zm-21-4zm59 12zm8 4zm10 6zm10-3zm23 4zm6-5zm5-3zm-67 16zm0-2z"/>
<path id="h6_7" d="M1135 2482zm16-3zm11-4zm1 4zm2 1zm-31 8zm-3 10zm32 9zm10-9zm3 13zm-1-3zm-5 6zm-38 4zm-53 10zm29-1zm7 2zm19-5zm12-3zm1 5zm23 1zm3 4zm9-1zm1-8zm18 12zm-30-2zm-79 1zm-7 9zm-5-1zm-1-4zm8 14zm6-1zm57 5zm14-7zm30 4zm23 10zm-19-5zm-3 5zm-1-2zm-7 5zm-17 2zm-2 0zm-10-2zm-19-2zm-8-3zm-85 1zm3 14zm0-7zm2 9zm14-4zm4 2zm32 1zm26-1zm7-2zm12 0zm7 1zm6-1zm7 0zm1 3zm2 2zm16-6zm14 0zm4-1zm3-1zm6 2zm2-1zm14 9zm-24 0zm-43 9zm-27-2zm-22-6zm-34 8zm-6-5zm-26-1zm69 11zm42 14zm-57 3z"/>
<path id="h6_8" d="M1098 2482zm58-4zm10 4zm-13 3zm-1 9zm-1-6zm-8-3zm-34 6zm70 28zm-4 7zm8-5zm24 19zm-118 0zm-17 2zm-10 9zm15-2zm19 3zm95-8zm1 5zm0 1zm5 5zm8-5zm3-4zm12 15zm-8 0zm-2-2zm-8 4zm-6-7zm-7 8zm-17 2zm-4-5zm-1 3zm-17-2zm-2-5zm-1 4zm-6-5zm0 4zm-16 5zm-14 0zm-5-7zm-11 0zm-5-2zm-11 5zm-1 4zm-7-7zm-7 9zm-17 6zm7 3zm6 0zm6-5zm19 7zm4-2zm4-3zm18 5zm10 0zm6-10zm3 1zm3 8zm39-2zm36 0zm2-7zm-35 12zm-35 9zm-3-3zm-53 3zm-20-5zm-18 7zm71 5zm19-4zm2 3zm0 1zm1 4zm23-8zm-21 12z"/>
<path id="h6_9" d="M1149 2480zm3 0zm5 12zm-67-7zm19 11zm23 11zm28 9zm-48-7zm-36 15zm24 18zm-25-8zm1 13zm69 6zm1-6zm2-1zm14 3zm24-2zm3 4zm21 8zm-10 2zm-9-4zm-40 8zm-4-5zm-3 1zm-86 1zm-8 5zm-7 6zm7-2zm15 5zm3-3zm6 4zm46-2zm21 0zm20-1zm34-1zm8-3zm11 7zm-7 10zm-19-4zm-25 5zm-26 1zm-9-5zm0 6zm-60-9zm41 20zm-7 8z"/>
<path id="h6_10" d="M1108 2497zm57 6zm22 15zm-12-5zm-4 1zm-3-6zm-23 6zm-5-5zm-1 2zm-3 4zm-42 10zm70-5zm4 10zm5-6zm2-1zm23 18zm0-9zm-105 22zm8-1zm22-8zm17 3zm5 0zm7 0zm13 7zm20-7zm1-3zm13-1zm1 9zm6-3zm-20 17zm-15-3zm-26-3zm-37 6zm-19-9zm-6 9zm-17-6zm-7 3zm6 14zm24 1zm7-8zm22-1zm9-2zm1 8zm17-4zm27 6zm10-10zm11 2zm13 1zm16-2zm0-1zm-10 12zm-64 7zm-13 2zm-12-1zm-5-6zm-12 6zm-38-4zm-23 5zm58 6zm64-1zm-5 16zm-24 0z"/>
<path id="h6_11" d="M1141 2479zm4-3zm2-2zm10 3zm-11 10zm0 2zm-40 11zm24-1zm13 6zm4-1zm18 9zm-23 3zm-1-5zm-7 10zm1 9zm7-9zm6 7zm29 1zm30 14zm-3-5zm-4-3zm-62 3zm-29 3zm-9-5zm67 10zm14 5zm6 3zm2-2zm5-2zm29 17zm-6-6zm-8 3zm-4-3zm-26 5zm-29-10zm-90 9zm-15 7zm87 2zm2-6zm37 8zm5-8zm21 5zm3-3zm15 7zm9 0zm-14 5zm-35-1zm-75 6zm31 14zm25 7zm-74-4z"/>
<path id="h7_0" d="M1024 2878zm-1 0zm-6-3zm-8 2zm-1-7zm-5 1zm-2 8zm-11-2zm-2-3zm-2 3zm-1-4zm-9 9zm6 4zm12 4zm2-1zm2-5zm7 4zm6-2zm2-2zm0-1zm5 7zm4 5zm-19-3zm-12 9zm-2-6zm-2 6zm-2-4zm-5-1zm-5-4zm-3 3zm19 15zm6 2zm6-4zm1-2zm4 7z"/>
<path id="h7_1" d="M1019 2876zm-13 1zm-1 0zm-1-1zm-3 0zm-1-2zm-5 5zm-5-7zm-5 3zm-5-6zm-4 8zm-4 6zm2 5zm18 1zm9 2zm4-1zm11-6zm9 14zm-2-3zm-3 5zm-14 3zm-10-4zm-2 3zm-9-2zm-9 0zm-2-8zm-1 4zm26 16zm11 1zm4-8z"/>
<path id="h7_2" d="M998 2867zm9 10zm-14-8zm-6 8zm0-4zm-6 0zm-1-2zm-10 17zm26-4zm9 1zm10-1zm8 10zm-11-2zm-7 9zm-3-1zm-2-7zm0 10zm-7-5zm-1 5zm-14-8zm12 9zm6 10zm0-4zm20 1z"/>
<path id="h7_3" d="M1017 2876zm-7-2zm0-2zm-19 4zm-1-7zm-1 3zm-16 1zm2 15zm26-3zm2 4zm21-7zm-22 15zm-6 5zm-1-3zm-8 4zm-11 2zm26 2zm4 3zm2 2zm9-3zm-24 7z"/>
<path id="h7_4" d="M1016 2873zm-17 5zm-6-2zm-13-7zm-10 21zm12 0zm32-1zm1-8zm6 4zm5 16zm-11-1zm-13-3zm-9-4zm-8 11zm12 7zm20-2z"/>
<path id="h7_5" d="M1025 2871zm-33 7zm0-8zm-3 2zm-2-1zm-4 6zm-9 7zm29-3zm2 8zm9-3zm9 9zm-13-1zm-13 3zm-27-2zm16 16zm9-5zm1 1zm2-2zm3 6zm12 1z"/>
<path id="h7_6" d="M1017 2874zm-33 3zm-10 6zm11 4zm22 11zm-9-4zm-9 14z"/>
<path id="h7_7" d="M984 2876zm-6 9zm1 6zm41-2zm1-7zm-23 13zm-9 2zm-4 4zm-6-9zm-5 2zm19 21zm0-1zm12-5z"/>
<path id="h7_8" d="M1022 2875zm-37 7zm4 5zm1-5zm30 18zm-42-1zm0 8z"/>
<path id="h7_9" d="M1000 2867zm4 0zm-27 6zm11 13zm30 6zm-17 4z"/>
<path id="h7_10" d="M998 2864zm-1 11zm-25 5zm11 10zm4 0zm7-7zm-9 22zm13 9z"/>
<path id="h7_11" d="M992 2870zm-10 7zm-8 14zm53-7zm3 6zm-24 3zm-3 9z"/>
</defs>
<rect width="685" height="1522" fill="#fff"/>
<g fill="none" stroke-linecap="square">
<g transform="scale(0.25)" stroke-width="5.2"><g stroke="#b5bd61"><use href="#g1_8"/></g><g stroke="#ffbb78"><use href="#g8_8"/></g><g stroke="#8c564b"><use href="#g2_4"/></g><g stroke="#ffbb78"><use href="#g7_5"/></g><g stroke="#98df8a"><use href="#g13_10"/></g><g stroke="#ffbb78"><use href="#g6_2"/></g><g stroke="#8c564b"><use href="#g6_4"/><use href="#g0_0"/><use href="#g11_11"/></g><g stroke="#d62728"><use href="#g2_7"/></g><g stroke="#279e68"><use href="#g9_7"/></g><g stroke="#e377c2"><use href="#g0_4"/></g><g stroke="#9467bd"><use href="#g3_11"/></g><g stroke="#279e68"><use href="#g11_7"/></g><g stroke="#b5bd61"><use href="#g0_9"/></g><g stroke="#279e68"><use href="#g8_3"/></g><g stroke="#ff7f0e"><use href="#g13_2"/></g><g stroke="#279e68"><use href="#g6_8"/></g><g stroke="#98df8a"><use href="#g13_7"/></g><g stroke="#ffbb78"><use href="#g4_3"/></g><g stroke="#d62728"><use href="#g12_8"/></g><g stroke="#e377c2"><use href="#g0_7"/></g><g stroke="#d62728"><use href="#g12_0"/></g><g stroke="#ffbb78"><use href="#g5_7"/><use href="#g5_0"/><use href="#g6_5"/></g><g stroke="#8c564b"><use href="#g4_11"/></g><g stroke="#d62728"><use href="#g12_5"/></g><g stroke="#279e68"><use href="#g8_1"/></g><g stroke="#17becf"><use href="#g8_10"/></g><g stroke="#8c564b"><use href="#g5_5"/></g><g stroke="#ffbb78"><use href="#g2_10"/><use href="#g7_2"/><use href="#g6_6"/><use href="#g3_3"/></g><g stroke="#9467bd"><use href="#g12_11"/></g><g stroke="#ffbb78"><use href="#g0_1"/></g><g stroke="#d62728"><use href="#g12_7"/><use href="#g10_8"/></g><g stroke="#ffbb78"><use href="#g11_2"/></g><g stroke="#8c564b"><use href="#g4_7"/></g><g stroke="#ffbb78"><use href="#g12_9"/><use href="#g1_4"/><use href="#g4_5"/><use href="#g1_7"/></g><g stroke="#17becf"><use href="#g6_9"/></g><g stroke="#8c564b"><use href="#g3_0"/></g><g stroke="#17becf"><use href="#g1_10"/></g><g stroke="#8c564b"><use href="#g1_11"/><use href="#g11_4"/></g><g stroke="#d62728"><use href="#g12_4"/></g><g stroke="#17becf"><use href="#g12_10"/></g><g stroke="#d62728"><use href="#g11_1"/></g><g stroke="#ffbb78"><use href="#g9_5"/></g><g stroke="#279e68"><use href="#g9_4"/><use href="#g7_7"/></g><g stroke="#8c564b"><use href="#g6_3"/></g><g stroke="#279e68"><use href="#g2_6"/><use href="#g9_1"/><use href="#g9_0"/></g><g stroke="#e377c2"><use href="#g11_9"/></g><g stroke="#8c564b"><use href="#g0_10"/></g><g stroke="#ffbb78"><use href="#g9_3"/></g><g stroke="#279e68"><use href="#g8_7"/></g><g stroke="#8c564b"><use href="#g4_1"/></g><g stroke="#279e68"><use href="#g4_9"/></g><g stroke="#d62728"><use href="#g12_2"/></g><g stroke="#17becf"><use href="#g13_3"/></g><g stroke="#d62728"><use href="#g3_8"/></g><g stroke="#8c564b"><use href="#g1_0"/></g><g stroke="#ffbb78"><use href="#g0_5"/></g><g stroke="#9467bd"><use href="#g11_8"/></g><g stroke="#8c564b"><use href="#g2_2"/></g><g stroke="#ffbb78"><use href="#g0_6"/></g><g stroke="#8c564b"><use href="#g4_2"/></g><g stroke="#ffbb78"><use href="#g8_4"/></g><g stroke="#17becf"><use href="#g9_6"/></g><g stroke="#d62728"><use href="#g11_0"/></g><g stroke="#17becf"><use href="#g6_10"/></g><g stroke="#ffbb78"><use href="#g8_2"/></g><g stroke="#d62728"><use href="#g12_1"/></g><g stroke="#279e68"><use href="#g0_11"/></g><g stroke="#b5bd61"><use href="#g7_11"/></g><g stroke="#8c564b"><use href="#g8_9"/></g><g stroke="#279e68"><use href="#g8_5"/><use href="#g13_0"/></g><g stroke="#ffbb78"><use href="#g13_8"/><use href="#g7_3"/></g><g stroke="#b5bd61"><use href="#g9_8"/></g><g stroke="#ffbb78"><use href="#g8_0"/></g><g stroke="#e377c2"><use href="#g4_8"/></g><g stroke="#ffbb78"><use href="#g9_10"/><use href="#g5_3"/></g><g stroke="#d62728"><use href="#g11_3"/></g><g stroke="#8c564b"><use href="#g0_3"/></g><g stroke="#9467bd"><use href="#g11_6"/></g><g stroke="#ffbb78"><use href="#g2_1"/><use href="#g1_1"/></g><g stroke="#8c564b"><use href="#g7_8"/></g><g stroke="#17becf"><use href="#g5_10"/></g><g stroke="#ffbb78"><use href="#g4_10"/></g><g stroke="#17becf"><use href="#g11_5"/></g><g stroke="#8c564b"><use href="#g5_9"/></g><g stroke="#9467bd"><use href="#g2_11"/></g><g stroke="#e377c2"><use href="#g1_5"/></g><g stroke="#8c564b"><use href="#g3_5"/></g><g stroke="#b5bd61"><use href="#g2_8"/></g><g stroke="#d62728"><use href="#g12_3"/></g><g stroke="#279e68"><use href="#g13_4"/></g><g stroke="#ffbb78"><use href="#g7_10"/></g><g stroke="#9467bd"><use href="#g7_9"/></g><g stroke="#17becf"><use href="#g7_6"/></g><g stroke="#e377c2"><use href="#g3_6"/></g><g stroke="#d62728"><use href="#g1_6"/></g><g stroke="#8c564b"><use href="#g4_4"/></g><g stroke="#279e68"><use href="#g7_4"/></g><g stroke="#17becf"><use href="#g11_10"/></g><g stroke="#e377c2"><use href="#g2_5"/></g><g stroke="#ffbb78"><use href="#g7_1"/></g><g stroke="#8c564b"><use href="#g3_2"/></g><g stroke="#d62728"><use href="#g0_8"/></g><g stroke="#8c564b"><use href="#g1_2"/></g><g stroke="#9467bd"><use href="#g8_11"/></g><g stroke="#ffbb78"><use href="#g3_1"/></g><g stroke="#17becf"><use href="#g9_11"/></g><g stroke="#d62728"><use href="#g10_2"/></g><g stroke="#ffbb78"><use href="#g5_1"/><use href="#g5_2"/></g><g stroke="#b5bd61"><use href="#g3_9"/></g><g stroke="#ffbb78"><use href="#g2_3"/></g><g stroke="#17becf"><use href="#g8_6"/></g><g stroke="#ffbb78"><use href="#g6_0"/></g><g stroke="#8c564b"><use href="#g6_1"/><use href="#g0_2"/></g><g stroke="#17becf"><use href="#g10_4"/><use href="#g3_7"/><use href="#g10_7"/></g><g stroke="#279e68"><use href="#g3_4"/></g><g stroke="#d62728"><use href="#g10_1"/></g><g stroke="#ffbb78"><use href="#g6_11"/><use href="#g4_0"/></g><g stroke="#17becf"><use href="#g5_6"/></g><g stroke="#8c564b"><use href="#g6_7"/></g><g stroke="#ffbb78"><use href="#g4_6"/><use href="#g3_10"/></g><g stroke="#ff7f0e"><use href="#g13_9"/></g><g stroke="#b5bd61"><use href="#g13_5"/></g><g stroke="#8c564b"><use href="#g2_0"/></g><g stroke="#279e68"><use href="#g9_2"/><use href="#g5_4"/><use href="#g9_9"/></g><g stroke="#17becf"><use href="#g2_9"/></g><g stroke="#d62728"><use href="#g12_6"/></g><g stroke="#b5bd61"><use href="#g13_1"/></g><g stroke="#ffbb78"><use href="#g10_0"/></g><g stroke="#8c564b"><use href="#g1_3"/></g><g stroke="#279e68"><use href="#g5_8"/></g><g stroke="#ffbb78"><use href="#g7_0"/></g><g stroke="#8c564b"><use href="#g5_11"/></g><g stroke="#279e68"><use href="#g1_9"/></g><g stroke="#ff7f0e"><use href="#g13_6"/></g></g>
<g transform="translate(77.9,312.2) scale(0.2105,0.21125)" stroke-width="4.83699"><g stroke="#43185c"><use href="#g0_0"/><use href="#g0_1"/><use href="#g0_2"/><use href="#g0_3"/><use href="#g0_4"/><use href="#g0_5"/><use href="#g0_6"/><use href="#g0_7"/><use href="#g0_8"/><use href="#g0_9"/><use href="#g0_10"/><use href="#g0_11"/><use href="#g1_0"/><use href="#g1_1"/><use href="#g1_2"/><use href="#g1_3"/><use href="#g1_4"/><use href="#g1_5"/><use href="#g1_6"/><use href="#g1_7"/><use href="#g1_8"/><use href="#g1_9"/><use href="#g1_10"/><use href="#g1_11"/><use href="#g2_0"/><use href="#g2_1"/><use href="#g2_2"/><use href="#g2_3"/><use href="#g2_4"/><use href="#g2_5"/><use href="#g2_6"/><use href="#g2_7"/><use href="#g2_8"/><use href="#g2_9"/><use href="#g2_10"/><use href="#g2_11"/><use href="#g3_0"/><use href="#g3_1"/><use href="#g3_2"/><use href="#g3_3"/><use href="#g3_4"/><use href="#g3_5"/><use href="#g3_6"/><use href="#g3_7"/><use href="#g3_8"/><use href="#g3_9"/><use href="#g3_10"/><use href="#g3_11"/><use href="#g4_0"/><use href="#g4_1"/><use href="#g4_2"/><use href="#g4_3"/><use href="#g4_4"/><use href="#g4_5"/><use href="#g4_6"/><use href="#g4_7"/><use href="#g4_8"/><use href="#g4_9"/><use href="#g4_10"/><use href="#g4_11"/><use href="#g5_0"/><use href="#g5_1"/><use href="#g5_2"/><use href="#g5_3"/><use href="#g5_4"/><use href="#g5_5"/><use href="#g5_6"/><use href="#g5_7"/><use href="#g5_8"/><use href="#g5_9"/><use href="#g5_10"/><use href="#g5_11"/><use href="#g6_0"/><use href="#g6_1"/><use href="#g6_2"/><use href="#g6_3"/><use href="#g6_4"/><use href="#g6_5"/><use href="#g6_6"/><use href="#g6_7"/><use href="#g6_8"/><use href="#g6_9"/><use href="#g6_10"/><use href="#g6_11"/><use href="#g7_0"/><use href="#g7_1"/><use href="#g7_2"/><use href="#g7_3"/><use href="#g7_4"/><use href="#g7_5"/><use href="#g7_6"/><use href="#g7_7"/><use href="#g7_8"/><use href="#g7_9"/><use href="#g7_10"/><use href="#g7_11"/><use href="#g8_0"/><use href="#g8_1"/><use href="#g8_2"/><use href="#g8_3"/><use href="#g8_4"/><use href="#g8_5"/><use href="#g8_6"/><use href="#g8_7"/><use href="#g8_8"/><use href="#g8_9"/><use href="#g8_10"/><use href="#g8_11"/><use href="#g9_0"/><use href="#g9_1"/><use href="#g9_2"/><use href="#g9_3"/><use href="#g9_4"/><use href="#g9_5"/><use href="#g9_6"/><use href="#g9_7"/><use href="#g9_8"/><use href="#g9_9"/><use href="#g9_10"/><use href="#g9_11"/><use href="#g10_0"/><use href="#g10_1"/><use href="#g10_2"/><use href="#g10_4"/><use href="#g10_7"/><use href="#g10_8"/><use href="#g11_0"/><use href="#g11_1"/><use href="#g13_0"/><use href="#g13_1"/><use href="#g13_2"/><use href="#g13_3"/><use href="#g13_4"/><use href="#g13_5"/><use href="#g13_6"/><use href="#g13_7"/><use href="#g13_8"/><use href="#g13_9"/><use href="#g13_10"/></g><g stroke="#355f8d"><use href="#g11_2"/><use href="#g11_3"/></g><g stroke="#32648e"><use href="#g12_0"/></g><g stroke="#26828e"><use href="#g12_1"/><use href="#g12_2"/><use href="#g12_3"/></g><g stroke="#25848e"><use href="#g11_4"/><use href="#g11_5"/><use href="#g11_6"/><use href="#g11_7"/></g><g stroke="#1f958b"><use href="#g12_4"/><use href="#g12_5"/><use href="#g12_6"/><use href="#g12_7"/></g><g stroke="#1e9c89"><use href="#g11_8"/><use href="#g11_9"/><use href="#g11_10"/></g><g stroke="#22a884"><use href="#g12_8"/><use href="#g12_9"/><use href="#g12_10"/></g><g stroke="#5ec962"><use href="#g12_11"/></g><g stroke="#9bd93c"><use href="#g11_11"/></g></g>
<text stroke="none" x="153" y="326.9" font-size="24.6" textLength="167.4" lengthAdjust="spacingAndGlyphs" font-family="'Liberation Sans',Arial,sans-serif" fill="#000"><tspan font-style="italic">PTPRC</tspan><tspan font-style="normal"> (CD45)</tspan></text>
<rect x="322.4" y="318.7" width="7.5" height="216.6" fill="url(#vg)" stroke="#222" stroke-width="0.6"/>
<path d="M330.2 535.3h1.9M330.2 501.3h1.9M330.2 467.3h1.9M330.2 433.3h1.9M330.2 399.3h1.9M330.2 365.3h1.9M330.2 331.3h1.9" stroke="#222" stroke-width="0.55" fill="none"/>
<g font-size="6.5" font-family="'DejaVu Sans','Liberation Sans',sans-serif" fill="#222"><text stroke="none" x="334.5" y="537.7">0.0</text><text stroke="none" x="334.5" y="503.7">0.5</text><text stroke="none" x="334.5" y="469.7">1.0</text><text stroke="none" x="334.5" y="435.7">1.5</text><text stroke="none" x="334.5" y="401.7">2.0</text><text stroke="none" x="334.5" y="367.7">2.5</text><text stroke="none" x="334.5" y="333.7">3.0</text></g>
<g transform="translate(408.7,314.4) scale(0.2105,0.21125)" stroke-width="4.83699"><g stroke="#43185c"><use href="#g0_0"/><use href="#g0_1"/><use href="#g0_2"/><use href="#g0_3"/><use href="#g0_4"/><use href="#g0_5"/><use href="#g0_6"/><use href="#g0_7"/><use href="#g0_8"/><use href="#g0_9"/><use href="#g0_10"/><use href="#g0_11"/><use href="#g1_0"/><use href="#g1_1"/><use href="#g1_2"/><use href="#g1_3"/><use href="#g1_4"/><use href="#g1_5"/><use href="#g1_6"/><use href="#g1_7"/><use href="#g1_8"/><use href="#g1_9"/><use href="#g1_10"/><use href="#g1_11"/><use href="#g2_0"/><use href="#g2_1"/><use href="#g2_2"/><use href="#g2_3"/><use href="#g2_4"/><use href="#g2_5"/><use href="#g2_6"/><use href="#g2_7"/><use href="#g2_8"/><use href="#g2_9"/><use href="#g2_10"/><use href="#g3_0"/><use href="#g3_1"/><use href="#g3_2"/><use href="#g3_3"/><use href="#g3_4"/><use href="#g3_5"/><use href="#g3_6"/><use href="#g3_7"/><use href="#g3_8"/><use href="#g3_9"/><use href="#g3_10"/><use href="#g4_0"/><use href="#g4_1"/><use href="#g4_2"/><use href="#g4_3"/><use href="#g4_4"/><use href="#g4_5"/><use href="#g4_6"/><use href="#g4_7"/><use href="#g4_8"/><use href="#g4_9"/><use href="#g4_10"/><use href="#g4_11"/><use href="#g5_0"/><use href="#g5_1"/><use href="#g5_2"/><use href="#g5_3"/><use href="#g5_4"/><use href="#g5_5"/><use href="#g5_6"/><use href="#g5_7"/><use href="#g5_8"/><use href="#g5_9"/><use href="#g5_10"/><use href="#g5_11"/><use href="#g6_0"/><use href="#g6_1"/><use href="#g6_2"/><use href="#g6_3"/><use href="#g6_4"/><use href="#g6_5"/><use href="#g6_6"/><use href="#g6_7"/><use href="#g6_8"/><use href="#g6_9"/><use href="#g6_10"/><use href="#g6_11"/><use href="#g7_0"/><use href="#g7_1"/><use href="#g7_2"/><use href="#g7_3"/><use href="#g7_4"/><use href="#g7_5"/><use href="#g7_6"/><use href="#g7_7"/><use href="#g7_8"/><use href="#g7_9"/><use href="#g7_10"/><use href="#g7_11"/><use href="#g8_0"/><use href="#g8_1"/><use href="#g8_2"/><use href="#g8_3"/><use href="#g8_4"/><use href="#g8_5"/><use href="#g8_6"/><use href="#g8_7"/><use href="#g8_8"/><use href="#g8_9"/><use href="#g8_10"/><use href="#g8_11"/><use href="#g9_0"/><use href="#g9_1"/><use href="#g9_2"/><use href="#g9_3"/><use href="#g9_4"/><use href="#g9_5"/><use href="#g9_6"/><use href="#g9_7"/><use href="#g9_8"/><use href="#g9_9"/><use href="#g9_10"/><use href="#g10_0"/><use href="#g10_1"/><use href="#g10_2"/><use href="#g10_4"/><use href="#g10_7"/><use href="#g10_8"/><use href="#g11_0"/><use href="#g13_0"/><use href="#g13_1"/><use href="#g13_2"/><use href="#g13_3"/><use href="#g13_4"/><use href="#g13_5"/><use href="#g13_6"/><use href="#g13_7"/><use href="#g13_8"/><use href="#g13_9"/><use href="#g13_10"/></g><g stroke="#2a788e"><use href="#g2_11"/><use href="#g3_11"/><use href="#g9_11"/></g><g stroke="#21918c"><use href="#g12_0"/></g><g stroke="#1e9c89"><use href="#g11_1"/><use href="#g11_2"/><use href="#g11_3"/></g><g stroke="#26ad81"><use href="#g12_1"/><use href="#g12_2"/></g><g stroke="#58c765"><use href="#g12_3"/><use href="#g12_4"/><use href="#g12_5"/><use href="#g12_6"/></g><g stroke="#5ec962"><use href="#g11_4"/><use href="#g11_5"/><use href="#g11_6"/></g><g stroke="#95d840"><use href="#g12_7"/><use href="#g12_8"/><use href="#g12_9"/></g><g stroke="#d2e21b"><use href="#g11_7"/><use href="#g11_8"/><use href="#g11_9"/><use href="#g11_10"/><use href="#g11_11"/></g><g stroke="#dfe318"><use href="#g12_10"/><use href="#g12_11"/></g></g>
<text stroke="none" x="502.6" y="327.2" font-size="24.6" textLength="135.9" lengthAdjust="spacingAndGlyphs" font-family="'Liberation Sans',Arial,sans-serif" fill="#000"><tspan font-style="italic">AIF1</tspan><tspan font-style="normal"> (IBA-1)</tspan></text>
<rect x="653.1" y="321.9" width="7.3" height="215.8" fill="url(#vg)" stroke="#222" stroke-width="0.6"/>
<path d="M660.7 537.7h1.9M660.7 491.5h1.9M660.7 445.3h1.9M660.7 399.1h1.9M660.7 352.9h1.9" stroke="#222" stroke-width="0.55" fill="none"/>
<g font-size="6.5" font-family="'DejaVu Sans','Liberation Sans',sans-serif" fill="#222"><text stroke="none" x="665" y="540.1">0</text><text stroke="none" x="665" y="493.9">1</text><text stroke="none" x="665" y="447.7">2</text><text stroke="none" x="665" y="401.5">3</text><text stroke="none" x="665" y="355.3">4</text></g>
<g transform="translate(0,0) scale(0.25)" stroke-width="4.08"><g stroke="#43185c"><use href="#h0_0"/><use href="#h0_1"/><use href="#h0_2"/><use href="#h0_3"/><use href="#h0_4"/><use href="#h0_5"/><use href="#h0_6"/><use href="#h0_7"/><use href="#h0_8"/><use href="#h0_9"/><use href="#h0_10"/><use href="#h0_11"/><use href="#h1_0"/><use href="#h1_1"/><use href="#h1_2"/><use href="#h1_3"/><use href="#h1_4"/><use href="#h1_5"/><use href="#h1_6"/><use href="#h1_7"/><use href="#h1_8"/><use href="#h1_9"/><use href="#h1_10"/><use href="#h1_11"/><use href="#h2_0"/><use href="#h2_1"/><use href="#h2_2"/><use href="#h2_3"/><use href="#h2_4"/><use href="#h2_5"/><use href="#h2_6"/><use href="#h2_7"/><use href="#h2_8"/><use href="#h2_9"/><use href="#h2_10"/><use href="#h3_0"/><use href="#h3_1"/><use href="#h3_2"/><use href="#h3_3"/><use href="#h3_4"/><use href="#h3_5"/><use href="#h3_6"/><use href="#h3_8"/><use href="#h3_11"/><use href="#h4_0"/><use href="#h4_2"/><use href="#h4_3"/><use href="#h4_4"/><use href="#h4_6"/><use href="#h4_7"/><use href="#h4_8"/><use href="#h5_0"/><use href="#h5_1"/><use href="#h7_0"/><use href="#h7_1"/><use href="#h7_2"/><use href="#h7_3"/><use href="#h7_4"/><use href="#h7_5"/><use href="#h7_6"/><use href="#h7_7"/><use href="#h7_8"/><use href="#h7_9"/><use href="#h7_10"/><use href="#h7_11"/></g><g stroke="#2f6c8e"><use href="#h2_11"/></g><g stroke="#2c738e"><use href="#h5_2"/></g><g stroke="#228b8d"><use href="#h6_0"/></g><g stroke="#1f958b"><use href="#h5_3"/><use href="#h5_4"/><use href="#h5_5"/><use href="#h5_6"/></g><g stroke="#22a884"><use href="#h6_1"/><use href="#h6_2"/><use href="#h6_3"/></g><g stroke="#3bbb75"><use href="#h5_7"/><use href="#h5_8"/><use href="#h5_9"/></g><g stroke="#44bf70"><use href="#h6_4"/><use href="#h6_5"/><use href="#h6_6"/></g><g stroke="#7ad151"><use href="#h6_7"/><use href="#h6_8"/><use href="#h6_9"/><use href="#h6_10"/></g><g stroke="#9bd93c"><use href="#h5_10"/><use href="#h5_11"/></g><g stroke="#cae11f"><use href="#h6_11"/></g></g>
<text stroke="none" x="200.1" y="561" font-size="24.6" textLength="66.5" lengthAdjust="spacingAndGlyphs" font-family="'Liberation Sans',Arial,sans-serif" fill="#000"><tspan font-style="italic">C1QA</tspan></text>
<rect x="320.5" y="546.1" width="7.2" height="216.6" fill="url(#vg)" stroke="#222" stroke-width="0.6"/>
<path d="M328 762.7h1.9M328 715.7h1.9M328 668.7h1.9M328 621.7h1.9M328 574.7h1.9" stroke="#222" stroke-width="0.55" fill="none"/>
<g font-size="6.5" font-family="'DejaVu Sans','Liberation Sans',sans-serif" fill="#222"><text stroke="none" x="332.3" y="765.1">0</text><text stroke="none" x="332.3" y="718.1">1</text><text stroke="none" x="332.3" y="671.1">2</text><text stroke="none" x="332.3" y="624.1">3</text><text stroke="none" x="332.3" y="577.1">4</text></g>
<g transform="translate(332.4,3.5) scale(0.25)" stroke-width="4.08"><g stroke="#43185c"><use href="#h0_0"/><use href="#h0_1"/><use href="#h0_2"/><use href="#h0_3"/><use href="#h0_4"/><use href="#h0_5"/><use href="#h0_6"/><use href="#h0_7"/><use href="#h0_8"/><use href="#h0_9"/><use href="#h0_10"/><use href="#h0_11"/><use href="#h1_0"/><use href="#h1_1"/><use href="#h1_2"/><use href="#h1_3"/><use href="#h1_4"/><use href="#h1_5"/><use href="#h1_6"/><use href="#h1_7"/><use href="#h1_8"/><use href="#h1_9"/><use href="#h1_10"/><use href="#h1_11"/><use href="#h2_0"/><use href="#h2_1"/><use href="#h2_2"/><use href="#h2_3"/><use href="#h2_4"/><use href="#h2_5"/><use href="#h2_6"/><use href="#h2_7"/><use href="#h2_8"/><use href="#h2_9"/><use href="#h2_10"/><use href="#h2_11"/><use href="#h3_0"/><use href="#h3_1"/><use href="#h3_2"/><use href="#h3_3"/><use href="#h3_4"/><use href="#h3_5"/><use href="#h3_6"/><use href="#h3_8"/><use href="#h3_11"/><use href="#h4_0"/><use href="#h4_2"/><use href="#h4_3"/><use href="#h4_4"/><use href="#h4_6"/><use href="#h4_7"/><use href="#h4_8"/><use href="#h5_0"/><use href="#h5_1"/><use href="#h5_2"/><use href="#h6_0"/><use href="#h7_0"/><use href="#h7_1"/><use href="#h7_2"/><use href="#h7_3"/><use href="#h7_4"/><use href="#h7_5"/><use href="#h7_6"/><use href="#h7_7"/><use href="#h7_8"/><use href="#h7_9"/><use href="#h7_10"/><use href="#h7_11"/></g><g stroke="#355f8d"><use href="#h5_3"/></g><g stroke="#228b8d"><use href="#h6_1"/><use href="#h6_2"/></g><g stroke="#21918c"><use href="#h5_4"/><use href="#h5_5"/><use href="#h5_6"/><use href="#h5_7"/></g><g stroke="#22a884"><use href="#h6_3"/><use href="#h6_4"/><use href="#h6_5"/><use href="#h6_6"/></g><g stroke="#2fb47c"><use href="#h5_8"/><use href="#h5_9"/></g><g stroke="#4ec36b"><use href="#h6_7"/><use href="#h6_8"/><use href="#h6_9"/></g><g stroke="#9bd93c"><use href="#h5_10"/><use href="#h5_11"/></g><g stroke="#bddf26"><use href="#h6_10"/><use href="#h6_11"/></g></g>
<text stroke="none" x="535" y="561" font-size="24.6" textLength="67.3" lengthAdjust="spacingAndGlyphs" font-family="'Liberation Sans',Arial,sans-serif" fill="#000"><tspan font-style="italic">C1QB</tspan></text>
<rect x="653.1" y="548.7" width="7.3" height="216.5" fill="url(#vg)" stroke="#222" stroke-width="0.6"/>
<path d="M660.7 765.2h1.9M660.7 739.425h1.9M660.7 713.65h1.9M660.7 687.875h1.9M660.7 662.1h1.9M660.7 636.325h1.9M660.7 610.55h1.9M660.7 584.775h1.9M660.7 559h1.9" stroke="#222" stroke-width="0.55" fill="none"/>
<g font-size="6.5" font-family="'DejaVu Sans','Liberation Sans',sans-serif" fill="#222"><text stroke="none" x="665" y="767.6">0.0</text><text stroke="none" x="665" y="741.825">0.5</text><text stroke="none" x="665" y="716.05">1.0</text><text stroke="none" x="665" y="690.275">1.5</text><text stroke="none" x="665" y="664.5">2.0</text><text stroke="none" x="665" y="638.725">2.5</text><text stroke="none" x="665" y="612.95">3.0</text><text stroke="none" x="665" y="587.175">3.5</text><text stroke="none" x="665" y="561.4">4.0</text></g>
<g transform="translate(75.7,767.2) scale(0.2105,0.21125)" stroke-width="4.83699"><g stroke="#43185c"><use href="#g0_0"/><use href="#g0_1"/><use href="#g0_2"/><use href="#g0_3"/><use href="#g0_4"/><use href="#g0_5"/><use href="#g0_6"/><use href="#g0_7"/><use href="#g0_8"/><use href="#g0_9"/><use href="#g0_10"/><use href="#g0_11"/><use href="#g1_0"/><use href="#g1_1"/><use href="#g1_2"/><use href="#g1_3"/><use href="#g1_4"/><use href="#g1_5"/><use href="#g1_6"/><use href="#g1_7"/><use href="#g1_8"/><use href="#g1_9"/><use href="#g1_10"/><use href="#g1_11"/><use href="#g2_0"/><use href="#g2_1"/><use href="#g2_2"/><use href="#g2_3"/><use href="#g2_4"/><use href="#g2_5"/><use href="#g2_6"/><use href="#g2_7"/><use href="#g2_8"/><use href="#g2_9"/><use href="#g2_10"/><use href="#g2_11"/><use href="#g3_0"/><use href="#g3_1"/><use href="#g3_2"/><use href="#g3_3"/><use href="#g3_4"/><use href="#g3_5"/><use href="#g3_6"/><use href="#g3_7"/><use href="#g3_8"/><use href="#g3_9"/><use href="#g3_10"/><use href="#g3_11"/><use href="#g4_0"/><use href="#g4_1"/><use href="#g4_2"/><use href="#g4_3"/><use href="#g4_4"/><use href="#g4_5"/><use href="#g4_6"/><use href="#g4_7"/><use href="#g4_8"/><use href="#g4_9"/><use href="#g4_10"/><use href="#g4_11"/><use href="#g5_0"/><use href="#g5_1"/><use href="#g5_2"/><use href="#g5_3"/><use href="#g5_4"/><use href="#g5_5"/><use href="#g5_6"/><use href="#g5_7"/><use href="#g5_8"/><use href="#g5_9"/><use href="#g5_10"/><use href="#g5_11"/><use href="#g6_0"/><use href="#g6_1"/><use href="#g6_2"/><use href="#g6_3"/><use href="#g6_4"/><use href="#g6_5"/><use href="#g6_6"/><use href="#g6_7"/><use href="#g6_8"/><use href="#g6_9"/><use href="#g6_10"/><use href="#g6_11"/><use href="#g7_0"/><use href="#g7_1"/><use href="#g7_2"/><use href="#g7_3"/><use href="#g7_4"/><use href="#g7_5"/><use href="#g7_6"/><use href="#g7_7"/><use href="#g7_8"/><use href="#g7_9"/><use href="#g7_10"/><use href="#g7_11"/><use href="#g8_0"/><use href="#g8_1"/><use href="#g8_2"/><use href="#g8_3"/><use href="#g8_4"/><use href="#g8_5"/><use href="#g8_6"/><use href="#g8_7"/><use href="#g8_8"/><use href="#g8_9"/><use href="#g8_10"/><use href="#g8_11"/><use href="#g9_0"/><use href="#g9_1"/><use href="#g9_2"/><use href="#g9_3"/><use href="#g9_4"/><use href="#g9_5"/><use href="#g9_6"/><use href="#g9_7"/><use href="#g9_8"/><use href="#g9_9"/><use href="#g9_10"/><use href="#g9_11"/><use href="#g10_0"/><use href="#g10_1"/><use href="#g10_2"/><use href="#g10_4"/><use href="#g10_7"/><use href="#g10_8"/><use href="#g11_0"/><use href="#g11_1"/><use href="#g13_0"/><use href="#g13_1"/><use href="#g13_2"/><use href="#g13_3"/><use href="#g13_4"/><use href="#g13_5"/><use href="#g13_6"/><use href="#g13_7"/><use href="#g13_8"/><use href="#g13_9"/><use href="#g13_10"/></g><g stroke="#355f8d"><use href="#g11_2"/><use href="#g11_3"/></g><g stroke="#2f6c8e"><use href="#g12_0"/></g><g stroke="#23898e"><use href="#g11_4"/><use href="#g11_5"/><use href="#g11_6"/><use href="#g12_1"/><use href="#g12_2"/><use href="#g12_3"/></g><g stroke="#1e9c89"><use href="#g12_4"/><use href="#g12_5"/><use href="#g12_6"/><use href="#g12_7"/><use href="#g12_8"/></g><g stroke="#22a884"><use href="#g11_7"/><use href="#g11_8"/></g><g stroke="#3bbb75"><use href="#g12_9"/><use href="#g12_10"/></g><g stroke="#bddf26"><use href="#g12_11"/></g><g stroke="#cae11f"><use href="#g11_9"/><use href="#g11_10"/><use href="#g11_11"/></g></g>
<text stroke="none" x="168.1" y="794.5" font-size="24.6" textLength="130.1" lengthAdjust="spacingAndGlyphs" font-family="'Liberation Sans',Arial,sans-serif" fill="#000"><tspan font-style="italic">SPI1</tspan><tspan font-style="normal"> (PU.1)</tspan></text>
<rect x="320.5" y="774" width="7.2" height="216.5" fill="url(#vg)" stroke="#222" stroke-width="0.6"/>
<path d="M328 990.5h1.9M328 957.15h1.9M328 923.8h1.9M328 890.45h1.9M328 857.1h1.9M328 823.75h1.9M328 790.4h1.9" stroke="#222" stroke-width="0.55" fill="none"/>
<g font-size="6.5" font-family="'DejaVu Sans','Liberation Sans',sans-serif" fill="#222"><text stroke="none" x="332.3" y="992.9">0.0</text><text stroke="none" x="332.3" y="959.55">0.5</text><text stroke="none" x="332.3" y="926.2">1.0</text><text stroke="none" x="332.3" y="892.85">1.5</text><text stroke="none" x="332.3" y="859.5">2.0</text><text stroke="none" x="332.3" y="826.15">2.5</text><text stroke="none" x="332.3" y="792.8">3.0</text></g>
<g transform="translate(330,228.2) scale(0.25)" stroke-width="4.08"><g stroke="#43185c"><use href="#h0_0"/><use href="#h0_1"/><use href="#h0_2"/><use href="#h0_3"/><use href="#h0_4"/><use href="#h0_5"/><use href="#h0_6"/><use href="#h0_7"/><use href="#h0_8"/><use href="#h0_9"/><use href="#h0_10"/><use href="#h0_11"/><use href="#h1_0"/><use href="#h1_1"/><use href="#h1_2"/><use href="#h1_3"/><use href="#h1_4"/><use href="#h1_5"/><use href="#h1_6"/><use href="#h1_7"/><use href="#h1_8"/><use href="#h1_9"/><use href="#h1_10"/><use href="#h1_11"/><use href="#h2_0"/><use href="#h2_1"/><use href="#h2_2"/><use href="#h2_3"/><use href="#h2_4"/><use href="#h2_5"/><use href="#h2_6"/><use href="#h2_7"/><use href="#h2_8"/><use href="#h2_9"/><use href="#h2_10"/><use href="#h3_0"/><use href="#h3_1"/><use href="#h3_2"/><use href="#h3_3"/><use href="#h3_4"/><use href="#h3_5"/><use href="#h3_6"/><use href="#h3_8"/><use href="#h3_11"/><use href="#h4_0"/><use href="#h4_2"/><use href="#h4_3"/><use href="#h4_4"/><use href="#h4_6"/><use href="#h4_7"/><use href="#h4_8"/><use href="#h5_0"/><use href="#h5_1"/><use href="#h7_0"/><use href="#h7_1"/><use href="#h7_2"/><use href="#h7_3"/><use href="#h7_4"/><use href="#h7_5"/><use href="#h7_6"/><use href="#h7_7"/><use href="#h7_8"/><use href="#h7_9"/><use href="#h7_10"/><use href="#h7_11"/></g><g stroke="#355f8d"><use href="#h5_2"/></g><g stroke="#2f6c8e"><use href="#h2_11"/><use href="#h6_0"/></g><g stroke="#21918c"><use href="#h5_3"/><use href="#h5_4"/><use href="#h5_5"/></g><g stroke="#1f958b"><use href="#h6_1"/><use href="#h6_2"/></g><g stroke="#2cb17e"><use href="#h6_3"/><use href="#h6_4"/><use href="#h6_5"/><use href="#h6_6"/></g><g stroke="#44bf70"><use href="#h5_6"/><use href="#h5_7"/><use href="#h5_8"/></g><g stroke="#63cb5f"><use href="#h6_7"/><use href="#h6_8"/><use href="#h6_9"/></g><g stroke="#bddf26"><use href="#h5_9"/><use href="#h5_10"/><use href="#h5_11"/></g><g stroke="#cae11f"><use href="#h6_10"/><use href="#h6_11"/></g></g>
<text stroke="none" x="534" y="794" font-size="24.6" textLength="68.8" lengthAdjust="spacingAndGlyphs" font-family="'Liberation Sans',Arial,sans-serif" fill="#000"><tspan font-style="italic">C1QC</tspan></text>
<rect x="651.1" y="773.7" width="7.3" height="216.6" fill="url(#vg)" stroke="#222" stroke-width="0.6"/>
<path d="M658.7 990.3h1.9M658.7 965.75h1.9M658.7 941.2h1.9M658.7 916.65h1.9M658.7 892.1h1.9M658.7 867.55h1.9M658.7 843h1.9M658.7 818.45h1.9M658.7 793.9h1.9" stroke="#222" stroke-width="0.55" fill="none"/>
<g font-size="6.5" font-family="'DejaVu Sans','Liberation Sans',sans-serif" fill="#222"><text stroke="none" x="663" y="992.7">0.0</text><text stroke="none" x="663" y="968.15">0.5</text><text stroke="none" x="663" y="943.6">1.0</text><text stroke="none" x="663" y="919.05">1.5</text><text stroke="none" x="663" y="894.5">2.0</text><text stroke="none" x="663" y="869.95">2.5</text><text stroke="none" x="663" y="845.4">3.0</text><text stroke="none" x="663" y="820.85">3.5</text><text stroke="none" x="663" y="796.3">4.0</text></g>
<g transform="translate(75.7,1030.1) scale(0.2105,0.21125)" stroke-width="4.83699"><g stroke="#43185c"><use href="#g0_0"/><use href="#g0_1"/><use href="#g0_2"/><use href="#g0_3"/><use href="#g0_4"/><use href="#g0_5"/><use href="#g0_6"/><use href="#g0_7"/><use href="#g0_8"/><use href="#g0_9"/><use href="#g1_0"/><use href="#g1_1"/><use href="#g1_2"/><use href="#g1_3"/><use href="#g1_4"/><use href="#g1_5"/><use href="#g1_6"/><use href="#g1_7"/><use href="#g1_8"/><use href="#g1_9"/><use href="#g2_0"/><use href="#g2_1"/><use href="#g2_2"/><use href="#g2_3"/><use href="#g2_4"/><use href="#g2_5"/><use href="#g2_6"/><use href="#g2_7"/><use href="#g2_8"/><use href="#g2_9"/><use href="#g3_0"/><use href="#g3_1"/><use href="#g3_2"/><use href="#g3_3"/><use href="#g3_4"/><use href="#g3_5"/><use href="#g3_6"/><use href="#g3_7"/><use href="#g3_8"/><use href="#g3_9"/><use href="#g4_0"/><use href="#g4_1"/><use href="#g4_2"/><use href="#g4_3"/><use href="#g4_4"/><use href="#g4_5"/><use href="#g4_6"/><use href="#g4_7"/><use href="#g5_0"/><use href="#g5_1"/><use href="#g5_2"/><use href="#g5_3"/><use href="#g6_0"/><use href="#g6_1"/><use href="#g6_2"/><use href="#g6_3"/><use href="#g6_4"/><use href="#g7_0"/><use href="#g7_1"/><use href="#g7_2"/><use href="#g7_3"/><use href="#g7_4"/><use href="#g8_0"/><use href="#g8_1"/><use href="#g8_2"/><use href="#g9_0"/><use href="#g9_1"/><use href="#g10_0"/><use href="#g10_1"/><use href="#g10_2"/><use href="#g11_0"/><use href="#g11_1"/><use href="#g11_2"/><use href="#g11_3"/><use href="#g11_4"/><use href="#g11_5"/><use href="#g12_0"/><use href="#g12_1"/><use href="#g12_2"/><use href="#g12_3"/><use href="#g13_0"/><use href="#g13_1"/></g><g stroke="#3b528b"><use href="#g0_10"/><use href="#g0_11"/><use href="#g1_10"/><use href="#g1_11"/><use href="#g2_10"/><use href="#g2_11"/></g><g stroke="#375a8c"><use href="#g7_5"/><use href="#g7_6"/><use href="#g7_7"/></g><g stroke="#355f8d"><use href="#g3_10"/><use href="#g3_11"/><use href="#g4_8"/><use href="#g4_9"/><use href="#g4_10"/><use href="#g4_11"/><use href="#g8_3"/><use href="#g8_4"/><use href="#g8_5"/><use href="#g9_2"/><use href="#g9_3"/><use href="#g9_4"/><use href="#g11_6"/><use href="#g11_7"/><use href="#g11_8"/><use href="#g12_4"/><use href="#g12_5"/><use href="#g12_6"/></g><g stroke="#2f6c8e"><use href="#g5_4"/><use href="#g5_5"/><use href="#g5_6"/><use href="#g5_7"/><use href="#g5_8"/><use href="#g5_9"/><use href="#g5_10"/><use href="#g5_11"/><use href="#g6_5"/><use href="#g6_6"/><use href="#g6_7"/><use href="#g6_8"/><use href="#g6_9"/><use href="#g6_10"/><use href="#g6_11"/></g><g stroke="#2a788e"><use href="#g7_8"/><use href="#g7_9"/><use href="#g7_10"/><use href="#g10_4"/><use href="#g10_7"/><use href="#g10_8"/><use href="#g13_2"/><use href="#g13_3"/><use href="#g13_4"/><use href="#g13_5"/></g><g stroke="#287d8e"><use href="#g8_6"/><use href="#g8_7"/><use href="#g8_8"/><use href="#g9_5"/><use href="#g9_6"/><use href="#g9_7"/><use href="#g11_9"/><use href="#g11_10"/></g><g stroke="#27808e"><use href="#g12_7"/><use href="#g12_8"/><use href="#g12_9"/></g><g stroke="#21918c"><use href="#g7_11"/><use href="#g13_6"/><use href="#g13_7"/><use href="#g13_8"/><use href="#g13_9"/><use href="#g13_10"/></g><g stroke="#1f958b"><use href="#g8_9"/><use href="#g8_10"/><use href="#g8_11"/><use href="#g9_8"/><use href="#g9_9"/><use href="#g9_10"/></g><g stroke="#1e9c89"><use href="#g11_11"/><use href="#g12_10"/><use href="#g12_11"/></g><g stroke="#2fb47c"><use href="#g9_11"/></g></g>
<text stroke="none" x="200.1" y="1052.6" font-size="24.6" textLength="64" lengthAdjust="spacingAndGlyphs" font-family="'Liberation Sans',Arial,sans-serif" fill="#000"><tspan font-style="italic">HES1</tspan></text>
<rect x="320.5" y="1037.2" width="7.2" height="216" fill="url(#vg)" stroke="#222" stroke-width="0.6"/>
<path d="M328 1253.2h1.9M328 1221.5h1.9M328 1189.8h1.9M328 1158.1h1.9M328 1126.4h1.9M328 1094.7h1.9M328 1063h1.9" stroke="#222" stroke-width="0.55" fill="none"/>
<g font-size="6.5" font-family="'DejaVu Sans','Liberation Sans',sans-serif" fill="#222"><text stroke="none" x="332.3" y="1255.6">0.0</text><text stroke="none" x="332.3" y="1223.9">0.5</text><text stroke="none" x="332.3" y="1192.2">1.0</text><text stroke="none" x="332.3" y="1160.5">1.5</text><text stroke="none" x="332.3" y="1128.8">2.0</text><text stroke="none" x="332.3" y="1097.1">2.5</text><text stroke="none" x="332.3" y="1065.4">3.0</text></g>
<g transform="translate(406.5,1037.9) scale(0.2105,0.21125)" stroke-width="4.83699"><g stroke="#43185c"><use href="#g0_0"/><use href="#g0_1"/><use href="#g0_2"/><use href="#g0_3"/><use href="#g1_0"/><use href="#g1_1"/><use href="#g1_2"/><use href="#g1_3"/><use href="#g2_0"/><use href="#g2_1"/><use href="#g2_2"/><use href="#g2_3"/><use href="#g2_4"/><use href="#g2_5"/><use href="#g3_0"/><use href="#g3_1"/><use href="#g3_2"/><use href="#g3_3"/><use href="#g3_4"/><use href="#g3_5"/><use href="#g3_6"/><use href="#g3_7"/><use href="#g3_8"/><use href="#g4_0"/><use href="#g5_0"/><use href="#g6_0"/><use href="#g7_0"/><use href="#g8_0"/><use href="#g9_0"/><use href="#g10_0"/><use href="#g10_1"/><use href="#g10_2"/><use href="#g10_4"/><use href="#g11_0"/><use href="#g11_1"/><use href="#g11_2"/><use href="#g11_3"/><use href="#g11_4"/><use href="#g11_5"/><use href="#g11_6"/><use href="#g11_7"/><use href="#g11_8"/><use href="#g12_0"/><use href="#g12_1"/><use href="#g12_2"/><use href="#g12_3"/><use href="#g12_4"/><use href="#g12_5"/><use href="#g12_6"/><use href="#g12_7"/><use href="#g12_8"/><use href="#g12_9"/><use href="#g13_0"/><use href="#g13_1"/></g><g stroke="#355f8d"><use href="#g3_9"/><use href="#g3_10"/><use href="#g12_10"/><use href="#g12_11"/></g><g stroke="#32648e"><use href="#g2_6"/><use href="#g2_7"/></g><g stroke="#2f6c8e"><use href="#g1_4"/><use href="#g1_5"/><use href="#g1_6"/><use href="#g11_9"/><use href="#g11_10"/></g><g stroke="#2e6f8e"><use href="#g0_4"/><use href="#g0_5"/></g><g stroke="#2a788e"><use href="#g10_7"/><use href="#g10_8"/></g><g stroke="#287d8e"><use href="#g3_11"/><use href="#g4_1"/><use href="#g4_2"/><use href="#g4_3"/></g><g stroke="#26828e"><use href="#g2_8"/><use href="#g2_9"/><use href="#g2_10"/></g><g stroke="#25848e"><use href="#g7_1"/><use href="#g8_1"/><use href="#g13_2"/><use href="#g13_3"/><use href="#g13_4"/><use href="#g13_5"/><use href="#g13_6"/></g><g stroke="#24868e"><use href="#g1_7"/><use href="#g1_8"/><use href="#g1_9"/><use href="#g9_1"/></g><g stroke="#23898e"><use href="#g0_6"/><use href="#g0_7"/><use href="#g0_8"/></g><g stroke="#228b8d"><use href="#g5_1"/><use href="#g5_2"/><use href="#g5_3"/><use href="#g6_1"/><use href="#g6_2"/><use href="#g6_3"/></g><g stroke="#21918c"><use href="#g11_11"/></g><g stroke="#1f958b"><use href="#g4_4"/><use href="#g4_5"/><use href="#g4_6"/><use href="#g4_7"/></g><g stroke="#1f9a8a"><use href="#g2_11"/></g><g stroke="#1e9c89"><use href="#g7_2"/><use href="#g7_3"/><use href="#g7_4"/><use href="#g7_5"/><use href="#g8_2"/><use href="#g8_3"/><use href="#g8_4"/><use href="#g8_5"/><use href="#g13_7"/><use href="#g13_8"/><use href="#g13_9"/><use href="#g13_10"/></g><g stroke="#1f9f88"><use href="#g1_10"/><use href="#g1_11"/><use href="#g9_2"/><use href="#g9_3"/><use href="#g9_4"/></g><g stroke="#1fa188"><use href="#g0_9"/><use href="#g0_10"/><use href="#g0_11"/></g><g stroke="#20a386"><use href="#g5_4"/><use href="#g5_5"/><use href="#g5_6"/><use href="#g5_7"/><use href="#g5_8"/><use href="#g5_9"/><use href="#g5_10"/><use href="#g5_11"/><use href="#g6_4"/><use href="#g6_5"/><use href="#g6_6"/><use href="#g6_7"/><use href="#g6_8"/><use href="#g6_9"/><use href="#g6_10"/><use href="#g6_11"/></g><g stroke="#22a884"><use href="#g4_8"/><use href="#g4_9"/><use href="#g4_10"/><use href="#g4_11"/></g><g stroke="#29af7f"><use href="#g7_6"/><use href="#g7_7"/><use href="#g7_8"/><use href="#g7_9"/><use href="#g8_6"/><use href="#g8_7"/><use href="#g8_8"/><use href="#g8_9"/></g><g stroke="#2fb47c"><use href="#g9_5"/><use href="#g9_6"/><use href="#g9_7"/><use href="#g9_8"/><use href="#g9_9"/></g><g stroke="#5ec962"><use href="#g7_10"/><use href="#g7_11"/><use href="#g8_10"/><use href="#g8_11"/></g><g stroke="#6ece58"><use href="#g9_10"/><use href="#g9_11"/></g></g>
<text stroke="none" x="535.5" y="1053.2" font-size="24.6" textLength="65.8" lengthAdjust="spacingAndGlyphs" font-family="'Liberation Sans',Arial,sans-serif" fill="#000"><tspan font-style="italic">SOX2</tspan></text>
<rect x="651.2" y="1044.8" width="7.3" height="216.8" fill="url(#vg)" stroke="#222" stroke-width="0.6"/>
<path d="M658.8 1261.6h1.9M658.8 1232.6h1.9M658.8 1203.6h1.9M658.8 1174.6h1.9M658.8 1145.6h1.9M658.8 1116.6h1.9M658.8 1087.6h1.9M658.8 1058.6h1.9" stroke="#222" stroke-width="0.55" fill="none"/>
<g font-size="6.5" font-family="'DejaVu Sans','Liberation Sans',sans-serif" fill="#222"><text stroke="none" x="663.1" y="1264">0.0</text><text stroke="none" x="663.1" y="1235">0.5</text><text stroke="none" x="663.1" y="1206">1.0</text><text stroke="none" x="663.1" y="1177">1.5</text><text stroke="none" x="663.1" y="1148">2.0</text><text stroke="none" x="663.1" y="1119">2.5</text><text stroke="none" x="663.1" y="1090">3.0</text><text stroke="none" x="663.1" y="1061">3.5</text></g>
<g transform="translate(75.7,1282.3) scale(0.2105,0.21125)" stroke-width="4.83699"><g stroke="#43185c"><use href="#g0_0"/><use href="#g1_0"/><use href="#g2_0"/><use href="#g2_1"/><use href="#g3_0"/><use href="#g3_1"/><use href="#g3_2"/><use href="#g3_3"/><use href="#g4_0"/><use href="#g5_0"/><use href="#g6_0"/><use href="#g7_0"/><use href="#g7_1"/><use href="#g7_2"/><use href="#g8_0"/><use href="#g8_1"/><use href="#g8_2"/><use href="#g9_0"/><use href="#g9_1"/><use href="#g9_2"/><use href="#g10_0"/><use href="#g10_1"/><use href="#g10_2"/><use href="#g10_4"/><use href="#g11_0"/><use href="#g11_1"/><use href="#g11_2"/><use href="#g11_3"/><use href="#g11_4"/><use href="#g11_5"/><use href="#g11_6"/><use href="#g11_7"/><use href="#g11_8"/><use href="#g12_0"/><use href="#g12_1"/><use href="#g12_2"/><use href="#g12_3"/><use href="#g12_4"/><use href="#g12_5"/><use href="#g12_6"/><use href="#g12_7"/><use href="#g12_8"/><use href="#g12_9"/><use href="#g13_0"/><use href="#g13_1"/><use href="#g13_2"/><use href="#g13_3"/><use href="#g13_4"/></g><g stroke="#3a548c"><use href="#g3_4"/><use href="#g3_5"/><use href="#g3_6"/></g><g stroke="#38588c"><use href="#g9_3"/><use href="#g9_4"/><use href="#g9_5"/></g><g stroke="#375a8c"><use href="#g7_3"/><use href="#g7_4"/><use href="#g8_3"/><use href="#g8_4"/><use href="#g8_5"/><use href="#g12_10"/><use href="#g12_11"/></g><g stroke="#355f8d"><use href="#g2_2"/><use href="#g2_3"/><use href="#g2_4"/><use href="#g11_9"/><use href="#g11_10"/></g><g stroke="#2f6c8e"><use href="#g3_7"/><use href="#g3_8"/><use href="#g3_9"/><use href="#g10_7"/><use href="#g10_8"/><use href="#g13_5"/><use href="#g13_6"/><use href="#g13_7"/><use href="#g13_8"/><use href="#g13_9"/><use href="#g13_10"/></g><g stroke="#2e6f8e"><use href="#g9_6"/><use href="#g9_7"/><use href="#g9_8"/><use href="#g9_9"/></g><g stroke="#2c738e"><use href="#g1_1"/><use href="#g1_2"/><use href="#g7_5"/><use href="#g7_6"/><use href="#g7_7"/><use href="#g7_8"/><use href="#g8_6"/><use href="#g8_7"/><use href="#g8_8"/><use href="#g8_9"/></g><g stroke="#2a788e"><use href="#g0_1"/><use href="#g2_5"/><use href="#g2_6"/><use href="#g2_7"/><use href="#g2_8"/><use href="#g4_1"/><use href="#g4_2"/><use href="#g4_3"/></g><g stroke="#287d8e"><use href="#g5_1"/><use href="#g5_2"/><use href="#g5_3"/><use href="#g5_4"/><use href="#g6_1"/><use href="#g6_2"/><use href="#g6_3"/></g><g stroke="#25848e"><use href="#g3_10"/><use href="#g3_11"/><use href="#g11_11"/></g><g stroke="#24868e"><use href="#g8_10"/><use href="#g8_11"/><use href="#g9_10"/><use href="#g9_11"/></g><g stroke="#228b8d"><use href="#g1_3"/><use href="#g1_4"/><use href="#g1_5"/><use href="#g1_6"/><use href="#g7_9"/><use href="#g7_10"/><use href="#g7_11"/></g><g stroke="#21918c"><use href="#g0_2"/><use href="#g0_3"/><use href="#g0_4"/><use href="#g0_5"/><use href="#g2_9"/><use href="#g2_10"/><use href="#g2_11"/><use href="#g4_4"/><use href="#g4_5"/><use href="#g4_6"/><use href="#g4_7"/><use href="#g4_8"/></g><g stroke="#1f958b"><use href="#g5_5"/><use href="#g5_6"/><use href="#g5_7"/><use href="#g5_8"/><use href="#g5_9"/><use href="#g5_10"/><use href="#g5_11"/><use href="#g6_4"/><use href="#g6_5"/><use href="#g6_6"/><use href="#g6_7"/><use href="#g6_8"/><use href="#g6_9"/><use href="#g6_10"/><use href="#g6_11"/></g><g stroke="#1fa188"><use href="#g1_7"/><use href="#g1_8"/><use href="#g1_9"/><use href="#g1_10"/></g><g stroke="#20a386"><use href="#g0_6"/><use href="#g0_7"/><use href="#g0_8"/><use href="#g0_9"/><use href="#g0_10"/><use href="#g4_9"/><use href="#g4_10"/><use href="#g4_11"/></g><g stroke="#4ec36b"><use href="#g0_11"/><use href="#g1_11"/></g></g>
<text stroke="none" x="199.1" y="1316" font-size="24.6" textLength="66.5" lengthAdjust="spacingAndGlyphs" font-family="'Liberation Sans',Arial,sans-serif" fill="#000"><tspan font-style="italic">MAP2</tspan></text>
<rect x="320.5" y="1289.5" width="7.2" height="216.6" fill="url(#vg)" stroke="#222" stroke-width="0.6"/>
<path d="M328 1506.1h1.9M328 1478.55h1.9M328 1451h1.9M328 1423.45h1.9M328 1395.9h1.9M328 1368.35h1.9M328 1340.8h1.9M328 1313.25h1.9" stroke="#222" stroke-width="0.55" fill="none"/>
<g font-size="6.5" font-family="'DejaVu Sans','Liberation Sans',sans-serif" fill="#222"><text stroke="none" x="332.3" y="1508.5">0.0</text><text stroke="none" x="332.3" y="1480.95">0.5</text><text stroke="none" x="332.3" y="1453.4">1.0</text><text stroke="none" x="332.3" y="1425.85">1.5</text><text stroke="none" x="332.3" y="1398.3">2.0</text><text stroke="none" x="332.3" y="1370.75">2.5</text><text stroke="none" x="332.3" y="1343.2">3.0</text><text stroke="none" x="332.3" y="1315.65">3.5</text></g>
<g transform="translate(406.5,1283.6) scale(0.2105,0.21125)" stroke-width="4.83699"><g stroke="#43185c"><use href="#g0_0"/><use href="#g0_1"/><use href="#g1_0"/><use href="#g1_1"/><use href="#g2_0"/><use href="#g2_1"/><use href="#g2_2"/><use href="#g2_3"/><use href="#g2_4"/><use href="#g3_0"/><use href="#g3_1"/><use href="#g3_2"/><use href="#g3_3"/><use href="#g3_4"/><use href="#g3_5"/><use href="#g3_6"/><use href="#g4_0"/><use href="#g4_1"/><use href="#g5_0"/><use href="#g5_1"/><use href="#g6_0"/><use href="#g6_1"/><use href="#g7_0"/><use href="#g7_1"/><use href="#g7_2"/><use href="#g7_3"/><use href="#g7_4"/><use href="#g8_0"/><use href="#g8_1"/><use href="#g8_2"/><use href="#g8_3"/><use href="#g8_4"/><use href="#g8_5"/><use href="#g9_0"/><use href="#g9_1"/><use href="#g9_2"/><use href="#g9_3"/><use href="#g9_4"/><use href="#g9_5"/><use href="#g9_6"/><use href="#g10_0"/><use href="#g10_1"/><use href="#g10_2"/><use href="#g10_4"/><use href="#g11_0"/><use href="#g11_1"/><use href="#g11_2"/><use href="#g11_3"/><use href="#g11_4"/><use href="#g11_5"/><use href="#g11_6"/><use href="#g11_7"/><use href="#g11_8"/><use href="#g11_9"/><use href="#g12_0"/><use href="#g12_1"/><use href="#g12_2"/><use href="#g12_3"/><use href="#g12_4"/><use href="#g12_5"/><use href="#g12_6"/><use href="#g12_7"/><use href="#g12_8"/><use href="#g12_9"/><use href="#g12_10"/><use href="#g13_0"/><use href="#g13_1"/><use href="#g13_2"/><use href="#g13_3"/><use href="#g13_4"/><use href="#g13_5"/><use href="#g13_6"/><use href="#g13_7"/><use href="#g13_8"/></g><g stroke="#3e4c8a"><use href="#g9_7"/><use href="#g9_8"/><use href="#g9_9"/></g><g stroke="#3c4f8a"><use href="#g3_7"/><use href="#g3_8"/><use href="#g3_9"/></g><g stroke="#3b528b"><use href="#g7_5"/><use href="#g7_6"/><use href="#g7_7"/><use href="#g8_6"/><use href="#g8_7"/><use href="#g8_8"/><use href="#g12_11"/></g><g stroke="#38588c"><use href="#g2_5"/><use href="#g2_6"/><use href="#g2_7"/></g><g stroke="#375a8c"><use href="#g11_10"/><use href="#g11_11"/></g><g stroke="#355f8d"><use href="#g0_2"/><use href="#g0_3"/><use href="#g1_2"/><use href="#g1_3"/><use href="#g1_4"/><use href="#g10_7"/><use href="#g10_8"/><use href="#g13_9"/><use href="#g13_10"/></g><g stroke="#33628d"><use href="#g9_10"/><use href="#g9_11"/></g><g stroke="#31678e"><use href="#g3_10"/><use href="#g3_11"/><use href="#g8_9"/><use href="#g8_10"/></g><g stroke="#2f6c8e"><use href="#g7_8"/><use href="#g7_9"/><use href="#g7_10"/></g><g stroke="#2e6f8e"><use href="#g4_2"/><use href="#g4_3"/><use href="#g4_4"/></g><g stroke="#2d718e"><use href="#g2_8"/><use href="#g2_9"/><use href="#g2_10"/></g><g stroke="#2a788e"><use href="#g1_5"/><use href="#g1_6"/><use href="#g1_7"/><use href="#g1_8"/><use href="#g5_2"/><use href="#g5_3"/><use href="#g5_4"/><use href="#g6_2"/><use href="#g6_3"/><use href="#g6_4"/></g><g stroke="#287d8e"><use href="#g0_4"/><use href="#g0_5"/><use href="#g0_6"/><use href="#g0_7"/><use href="#g8_11"/></g><g stroke="#25848e"><use href="#g7_11"/></g><g stroke="#24868e"><use href="#g4_5"/><use href="#g4_6"/><use href="#g4_7"/><use href="#g4_8"/><use href="#g4_9"/></g><g stroke="#23898e"><use href="#g2_11"/></g><g stroke="#21918c"><use href="#g1_9"/><use href="#g1_10"/><use href="#g1_11"/><use href="#g5_5"/><use href="#g5_6"/><use href="#g5_7"/><use href="#g5_8"/><use href="#g5_9"/><use href="#g5_10"/><use href="#g5_11"/><use href="#g6_5"/><use href="#g6_6"/><use href="#g6_7"/><use href="#g6_8"/><use href="#g6_9"/><use href="#g6_10"/><use href="#g6_11"/></g><g stroke="#1f958b"><use href="#g0_8"/><use href="#g0_9"/><use href="#g0_10"/></g><g stroke="#1f9f88"><use href="#g4_10"/><use href="#g4_11"/></g><g stroke="#3bbb75"><use href="#g0_11"/></g></g>
<text stroke="none" x="529" y="1316" font-size="24.6" textLength="78.3" lengthAdjust="spacingAndGlyphs" font-family="'Liberation Sans',Arial,sans-serif" fill="#000"><tspan font-style="italic">TUBB3</tspan></text>
<rect x="651.1" y="1290.6" width="7.2" height="216.7" fill="url(#vg)" stroke="#222" stroke-width="0.6"/>
<path d="M658.6 1507.3h1.9M658.6 1474.15h1.9M658.6 1441h1.9M658.6 1407.85h1.9M658.6 1374.7h1.9M658.6 1341.55h1.9M658.6 1308.4h1.9" stroke="#222" stroke-width="0.55" fill="none"/>
<g font-size="6.5" font-family="'DejaVu Sans','Liberation Sans',sans-serif" fill="#222"><text stroke="none" x="662.9" y="1509.7">0.0</text><text stroke="none" x="662.9" y="1476.55">0.5</text><text stroke="none" x="662.9" y="1443.4">1.0</text><text stroke="none" x="662.9" y="1410.25">1.5</text><text stroke="none" x="662.9" y="1377.1">2.0</text><text stroke="none" x="662.9" y="1343.95">2.5</text><text stroke="none" x="662.9" y="1310.8">3.0</text></g>
</g>
<g fill="none" stroke-linecap="round" stroke-width="2.35">
<path transform="scale(.5)" stroke-width="5.6" stroke="#ff7f0e" d="M693 253zm12 8zm0-2zm-11 7zm10-2zm-6 10zm8 4zm1 0zm-11 4zm19 72zm-14 20z"/>
<path transform="scale(.5)" stroke-width="5.6" stroke="#ffbb78" d="M680 85zm1 1zm-14 5zm0 11zm5-1zm0 1zm2-3zm11-1zm1 1zm-25 11zm2-5zm2-1zm10 2zm4-1zm6 4zm1 2zm-24 1zm2 4zm4-2zm11 3zm5-3zm0 1zm0 4zm-25 5zm4-4zm23 2zm-27 13zm4 0zm7-5zm7 5zm-22 3zm0 3zm2-4zm5 3zm3 2zm4-1zm-13 4zm4 2zm6 2zm5 0zm8 2zm9-7zm-33 8zm5 0zm3 6zm2-3zm12 1zm-26 4zm0 1zm20-1zm8 2zm1-2zm-14 11zm18-1zm-36 9zm0-3zm12 7zm4 0zm1-5zm1 1zm3-3zm5 4zm18 0zm-45 10zm18-3zm1 0zm1-1zm5-2zm3 4zm7-4zm4 0zm-39 14zm2-4zm1 5zm16-4zm6 4zm2-3zm3 2zm6-5zm1 1zm7-1zm-43 8zm2 0zm11 5zm4-2zm6 1zm7 0zm16 1zm1-1zm-51 9zm7-4zm2 4zm8 1zm3-1zm4-4zm7 5zm6-4zm2-1zm13 2zm-49 11zm1 0zm17-1zm2-5zm14 3zm6 0zm63-1zm-104 10zm21-3zm2 1zm3 3zm6 1zm10-2zm1-5zm-44 13zm1-4zm1 1zm7 4zm1-5zm2 1zm8 5zm1-2zm3-4zm1 4zm6 2zm5-6zm0 0zm5 3zm11-2zm-48 13zm12-7zm7 4zm1 0zm6 1zm2 2zm4-6zm0 5zm-42 5zm1 2zm1-5zm12 6zm2-2zm3 2zm1-4zm5 3zm0-5zm8 0zm3 3zm8 0zm34 3zm2-3zm-80 11zm11 0zm0 0zm0 1zm3-7zm1 7zm10-6zm4 1zm7 4zm5-2zm2-1zm7-2zm-53 13zm13-3zm8-3zm1 7zm0-1zm14-1zm6 2zm62-1zm-103 5zm3 1zm12-2zm10 0zm5 0zm5-1zm2-1zm1 2zm73 5zm-109 2zm1 5zm3-1zm9 2zm0-1zm18-4zm1 1zm6 0zm11 1zm6-3zm83-1zm-133 9zm2 1zm0 5zm12-2zm9-4zm7-1zm18 5zm-56 6zm24-3zm4 1zm2 4zm4-3zm3 3zm9 0zm-47 4zm1 1zm1-1zm1 6zm5 0zm2-1zm0-1zm3 0zm8-3zm1 2zm5 1zm3 0zm12-2zm2-3zm2 5zm-17 4zm2 6zm9-4zm6-3zm2 3zm-55 7zm3-2zm1 2zm11 1zm3-1zm1-2zm2 3zm4 4zm2-3zm11-3zm2 1zm14 3zm92-1zm-147 6zm3 4zm6-1zm2-2zm2-2zm2 5zm7 1zm2-4zm6-2zm3 2zm8 4zm1 0zm4-1zm7-2zm12-2zm57-1zm-122 9zm1 1zm2 1zm2 1zm1-1zm2-2zm0 1zm5 1zm4-4zm10 5zm3-3zm12-1zm6 4zm12-4zm-47 7zm1 7zm1-3zm5 3zm0-2zm2 2zm9-6zm2 0zm1 2zm207 0zm-245 11zm16-2zm3-2zm24 2zm3 3zm4-7zm141 0zm58 6zm3-1zm-240 7zm5-4zm4 6zm3-1zm9-1zm10 3zm10-5zm103 3zm54 2zm-214 6zm3 1zm10-2zm20-2zm184 5zm10 0zm50-7zm-43 12zm26-1zm28-3zm-289 15zm7-2zm17-4zm17 0zm276 3zm-297 4zm15 1zm-28 11zm10-1zm8 3zm6-2zm312 1zm5-2zm-341 5zm14 7zm14-7zm-30 17zm7 1zm2-1zm7 1zm12-2zm-23 10zm21 2zm67-3zm-75 9zm91 16zm32-1zm196 21zm-177 4z"/>
<path transform="scale(.5)" stroke-width="5.6" stroke="#e377c2" d="M636 300zm21 51zm6 11zm195 4zm-224 14zm-14 33zm41-1zm-29 6zm13 4zm12 1zm-32 6zm4-3zm1 13zm4-4zm-8 9zm6-4zm1 5zm7 1z"/>
<path transform="scale(.5)" stroke-width="5.6" stroke="#1f77b4" d="M918 337zm-112 10zm62 12zm92 63zm-256 19z"/>
<path transform="scale(.5)" stroke-width="5.6" stroke="#98df8a" d="M761 319zm74 32zm34-4zm-87 10zm53 4zm-138 13zm6-2zm76-3zm-58 7z"/>
<path transform="scale(.5)" stroke-width="5.6" stroke="#17becf" d="M681 79zm3 31zm12 18zm-16 10zm6 1zm5 2zm-6 4zm-10 12zm2 5zm14 5zm-5 4zm2 4zm-9 18zm7 8zm50 5zm22 1zm-79 6zm6 1zm10 0zm-18 4zm6 3zm7-2zm17-3zm-41 8zm10 5zm-7 10zm20-6zm12 1zm15-1zm-43 13zm13 12zm8 0zm3 0zm17 2zm211-1zm-251 8zm31-2zm58-1zm36 4zm-135 4zm22 6zm10 7zm15-3zm74-1zm114 4zm-223 4zm12 3zm4 2zm88 0zm14 1zm-115 3zm18 0zm3 2zm52 46zm46 10zm19 3zm15 0zm-24 9zm63 2zm6-2zm17 0zm-15 10zm65 8zm6-2zm-82 11z"/>
<path transform="scale(.5)" stroke-width="5.6" stroke="#9467bd" d="M769 276zm-91 32zm11 0zm7 5zm0 5zm-9 8zm15-1zm-18 3zm2 3zm3 2zm134 2zm-21 7zm43 0zm-8 2zm48 4zm-59 8zm45-1zm-113 5zm52 11zm38 0zm31 6zm31 4zm-37 8zm65-4zm6 5zm-173 67z"/>
<path transform="scale(.5)" stroke-width="5.6" stroke="#b5bd61" d="M639 309zm22 36zm158 3zm-184 26zm211 0zm-219 4zm272 1zm-243 7zm-1 9z"/>
<path transform="scale(.5)" stroke-width="5.6" stroke="#d62728" d="M684 242zm-12 29zm245-4zm-254 18zm15-4zm1 3zm-30 16zm29 4zm140 0zm-21 21zm18-5zm19 6zm-9 7zm24 1zm-46 9zm14-4zm21 0zm18-3zm25 1zm27 2zm-160 5zm56 6zm28-2zm11-4zm16 2zm3-1zm2 6zm21-3zm15 2zm2-4zm11 0zm5-2zm-209 8zm60 1zm39 2zm13-2zm5 4zm5-4zm3 0zm18 5zm4-1zm27-5zm11 0zm1 2zm4 4zm17-4zm45 2zm7 2zm-260 8zm30 1zm48-6zm13 1zm0 4zm18-4zm0 3zm5-5zm10 3zm4 1zm10-1zm12 4zm16-1zm2-3zm5 1zm3-4zm3 1zm0-1zm5 3zm15 0zm10-2zm6 5zm3 0zm9 0zm5-4zm26 2zm-239 7zm86 1zm1 1zm5-3zm8 4zm1-5zm36 2zm0-3zm4 7zm3-3zm3 1zm4 0zm4-4zm1 1zm0 4zm16 1zm4-2zm13-3zm3-2zm2 7zm2-2zm2-5zm3 2zm1 3zm2-4zm4 2zm9 3zm3 0zm15-6zm7 7zm-232 2zm91 5zm6-1zm3 2zm20 0zm9-1zm3 0zm9-3zm4 4zm2-2zm5 2zm1-7zm0 5zm15 0zm3 1zm5-1zm4 1zm4-6zm2 7zm4-2zm2 0zm1 0zm4-4zm0-1zm2 0zm2 3zm4 3zm0-3zm4 0zm0 4zm4-2zm4-4zm1 2zm6 1zm1-3zm2 0zm3 6zm6 0zm1-1zm34 0zm-226 5zm24 2zm36 2zm15-4zm2-3zm12 0zm8 2zm3 4zm2-1zm3 2zm3-3zm1 0zm11 0zm0 2zm3-2zm1-4zm0 2zm7 2zm0 0zm5-4zm1 3zm0-3zm1 3zm4-3zm1 6zm0 1zm3-2zm1 2zm0-4zm0 4zm3-7zm7 0zm5 1zm5 6zm3-7zm1 6zm0 1zm1-5zm7 4zm1-3zm2-2zm1 4zm0-1zm2 3zm0-3zm1 1zm5-1zm1 0zm0 1zm6 1zm3-6zm5 7zm-168 7zm2 1zm7 0zm9 0zm14-1zm11-3zm0-3zm31 4zm10 2zm5-6zm2 1zm2 6zm11-1zm0-5zm3 2zm3 1zm4-1zm0 4zm7-4zm2 2zm1-2zm5 4zm1-3zm0-2zm5 4zm0-5zm0 5zm1 0zm1-3zm2 4zm3-6zm0 6zm6-7zm0 4zm1 0zm2 2zm5-1zm3-2zm1 2zm2-1zm1 3zm2 0zm0-1zm2-1zm20 1zm-191 7zm22 1zm18-4zm9 1zm17 1zm5-1zm9-3zm6 1zm8-1zm8 0zm7 2zm3 0zm3 5zm4-5zm2-1zm1 2zm2 1zm0 0zm2-3zm1 2zm1-1zm1 1zm0-1zm2 5zm0-1zm1-6zm2 6zm3-2zm1-2zm0 0zm3 5zm0-5zm1-1zm0 0zm2 2zm4 0zm2 1zm0-2zm1-1zm4 4zm1-5zm0 4zm1 1zm1 0zm0-3zm0 3zm0-1zm1-4zm2 5zm1 0zm1 2zm4-4zm2-1zm1-2zm0 6zm0 1zm0-4zm2 0zm2 0zm5 3zm11-2zm6 3zm-323 3zm145 2zm14 2zm18-4zm7-1zm8 2zm41 2zm11-5zm3 7zm3 0zm0-7zm8 1zm4 2zm1 4zm3-6zm0 6zm2-6zm0 1zm0 5zm1-5zm0-2zm0 4zm1-1zm1 2zm1-4zm0 6zm0-4zm0 1zm0 0zm1-3zm0 5zm1-1zm0-2zm0-3zm1 3zm2 4zm0-4zm3 2zm0 0zm2-3zm0 0zm0 5zm1-6zm1 3zm1 3zm4-7zm1 5zm1-3zm0 4zm1 1zm3-5zm0-1zm0 0zm1 2zm4-1zm0 5zm1-1zm3-3zm1 2zm0-5zm8 7zm6-5zm11-2zm-211 14zm136-6zm7 3zm4 0zm2 2zm1 0zm2-3zm3 3zm2-2zm3-3zm1 4zm0-2zm3 3zm1-3zm0 3zm2-2zm1-3zm1 3zm0 1zm1 3zm1-5zm3 5zm1-3zm1 3zm2-3zm0 1zm0-3zm0-1zm2 6zm1-1zm0 0zm2 0zm0-6zm1 7zm2-3zm2-4zm1 0zm2 3zm2 1zm1-2zm0 0zm2 1zm0 1zm3 0zm0 1zm24-3zm-143 8zm3 4zm56-3zm1 0zm0-3zm21 6zm4-3zm0-3zm7 5zm5-1zm1 1zm3-4zm1 1zm5 0zm0 1zm4-1zm5-1zm1 5zm19-1zm-51 6zm1-2zm1 0zm4 3zm3-4zm1 0zm1 4zm5-3zm0 2zm2 3zm5-6zm1 3zm2 0zm0-1zm15 4zm-150 9zm9 0zm60-4zm54-1zm15 2zm-115 7zm20 12zm-15 11zm38 2zm-49 4z"/>
<path transform="scale(.5)" stroke-width="5.6" stroke="#279e68" d="M688 87zm-5 3zm-11 6zm12 1zm0 1zm-16 10zm11 8zm-2 4zm2 7zm-6 8zm7-6zm6 4zm2-1zm0-2zm1-2zm-11 9zm5-1zm-1 12zm0-3zm10 6zm-37 4zm14-2zm0 5zm0-1zm4 0zm1-3zm5 1zm4 4zm5-5zm4 3zm-8 8zm5 0zm-24 5zm5 4zm8 1zm14-4zm0 4zm1-2zm-16 5zm11 5zm6-6zm1-1zm-32 14zm16-6zm1 5zm3-1zm3 1zm-10 7zm4 0zm3-2zm6 1zm1 0zm-20 6zm6 4zm11 2zm3-3zm-24 9zm0-4zm14 2zm10-1zm44 5zm-73 1zm8 7zm6-3zm2 2zm0-5zm4 5zm3-4zm0 3zm6-2zm2-3zm1 3zm1-1zm1 1zm-51 6zm15 3zm10-3zm3 0zm4 0zm4 3zm10 2zm2 0zm0-6zm4 1zm2 2zm2-3zm-38 15zm10-5zm5 1zm7 3zm1-6zm1 0zm8 4zm2 3zm-50 8zm16-6zm3 2zm1-1zm3 0zm4 5zm9-2zm8-1zm3 2zm1-6zm2 0zm3 5zm0-5zm1 0zm-35 9zm15 3zm0-3zm10 1zm0 4zm6 1zm1-4zm-36 7zm30 5zm4-7zm6 5zm5-5zm-38 13zm5-5zm10 6zm1-6zm-15 8zm4 0zm2 1zm8-1zm2 4zm5 1zm1 1zm3-6zm0 7zm-28 8zm5 0zm0-7zm3 4zm2-4zm5 2zm2 4zm0-2zm4-4zm10 7zm5-3zm-45 6zm26 5zm10-2zm6-5zm2 3zm121 2zm-181 9zm23-2zm3 0zm10-1zm12-1zm8 4zm4-6zm-54 15zm24-2zm5-3zm0 3zm3-4zm0 2zm2-3zm4 6zm5-3zm4 3zm2-2zm170 0zm-211 9zm8 0zm1 0zm5 2zm8-5zm1 3zm4-2zm3-2zm4 4zm0 1zm4-5zm5-1zm-40 10zm2-1zm9 4zm5-2zm4 3zm2-4zm14 3zm-37 9zm7-6zm9 1zm2 1zm16 3zm5 1zm-69 9zm30-7zm1 7zm6-3zm5 1zm3 0zm1-4zm2 5zm5-6zm2 5zm9-2zm150-3zm-204 9zm16-1zm9 1zm15 2zm1-3zm1 0zm4 3zm1-3zm4 2zm109 4zm41 1zm19-6zm-207 16zm138 2zm-31 8zm68-1zm30 3zm-199 20zm-20 17zm132 58z"/>
<path transform="scale(.5)" stroke-width="5.6" stroke="#aec7e8" d="M811 342zm6 7zm30-1zm-213 18zm232 10zm-210 47zm140 35zm23 12z"/>
<path transform="scale(.5)" stroke-width="5.6" stroke="#8c564b" d="M882 267zm-185 15zm-17 9zm-42 6zm-7 12zm4 2zm1-2zm11-3zm5-2zm10 3zm2-3zm13 6zm10 1zm1-2zm-53 5zm7-2zm2 0zm7 4zm0-3zm1 4zm14 0zm12 2zm-45 4zm0 3zm7-1zm2-5zm5 0zm7 5zm26-3zm9 0zm6 2zm3-1zm7 4zm-69 6zm1-2zm37-2zm14 3zm3-1zm29-3zm-84 8zm2 0zm0 1zm11-1zm1 2zm7 4zm5 1zm5-4zm5 4zm8-4zm6 1zm3-3zm37 5zm81-2zm-180 6zm1 2zm4-1zm4 0zm1-3zm1 6zm13-4zm1 4zm6-4zm5 4zm10 0zm180-1zm20 1zm-234 8zm7-6zm1 1zm6 5zm15 0zm5-6zm4 0zm4 7zm-51 4zm30-3zm12 4zm-44 9zm11 1zm1-2zm3 2zm14 0zm1 0zm16-4zm0 5zm-56 6zm2 0zm1-3zm10 3zm4-2zm4-3zm20 6zm9-2zm4-3zm1 0zm1 6zm190-2zm-248 7zm14 2zm9-5zm17 4zm8 2zm7 0zm1-2zm35-5zm165 1zm-248 10zm8 0zm3-2zm16-1zm3 1zm4 0zm-40 12zm3-2zm11-3zm17 5zm1-1zm2-4zm1 2zm4 3zm1-5zm3 7zm3-1zm0-2zm4-3zm101 6zm-143 8zm6-4zm4 0zm6-2zm7 2zm0 1zm-32 4zm15 0zm1 6zm15-4zm3 1zm6 2zm0-5zm-29 11zm1 0zm1 0zm6 1zm4-1zm3-3zm3 2zm11-2zm-35 15zm2-7zm0 4zm1 1zm5-1zm1-4zm4 2zm1-2zm3 4zm3-2zm2 2zm3 2zm-23 7zm10-5zm5 7zm35-5zm44 0zm224 5zm-193 14zm-39 7z"/>
<path transform="scale(.5)" stroke-width="5.6" stroke="#279e68" d="M678 89zm-6 13zm6-1zm-7 5zm-4 7zm6 4zm4-2zm0-1zm1 1zm7 3zm-27 8zm12-1zm3-1zm1 1zm2-2zm-7 8zm7 3zm13-1zm1-4zm1 0zm-32 9zm9-2zm4 0zm2 6zm4-6zm2 5zm1-2zm2-3zm1 3zm-28 6zm14 5zm14-4zm0 2zm3 0zm2 2zm0-6zm1 4zm1 1zm0 2zm1-7zm-21 15zm6-2zm11 2zm0-5zm3 2zm-22 6zm0 13zm3 0zm3 0zm8-5zm-33 6zm14 6zm6-3zm4 3zm1-1zm6-2zm9-1zm-33 6zm8 1zm5 3zm10 1zm7-3zm3 4zm-15 6zm15 1zm67-2zm-86 6zm0-1zm8 4zm1 0zm0-3zm4-1zm4 2zm3 1zm0 0zm-22 5zm13 5zm1-1zm0-3zm3 1zm1-2zm5 4zm40-4zm-61 9zm11 3zm8 0zm7-2zm-24 10zm2 2zm2-6zm5 6zm15-3zm-36 6zm9-1zm3 6zm17-1zm5 2zm-9 3zm0 4zm4-3zm-34 8zm10 0zm14 4zm3-3zm7 0zm7-3zm3 0zm99-1zm-136 13zm15 2zm2-1zm1-1zm6-5zm0 3zm3 4zm9-1zm195-2zm-233 8zm20-2zm0 4zm1 0zm4-4zm7-1zm3 4zm6 1zm212 1zm-238 3zm0 1zm1 4zm1-6zm4 2zm5-3zm11 2zm2 0zm-39 11zm0 0zm13 1zm3 0zm0-3zm7 3zm3-1zm0 0zm0-2zm1-2zm5 2zm-39 9zm7 1zm0-2zm11 0zm2 3zm14-6zm-4 8zm4 3zm6 4zm3-4zm0-2zm2 1zm-41 13zm2-3zm0 0zm6 0zm0-4zm3 3zm1 2zm6-2zm3-2zm3 2zm1-1zm2-1zm7 5zm3 0zm1-3zm2-2zm2 5zm-57 4zm31 3zm1 0zm2-1zm1 2zm-26 3zm9-1zm1 2zm2 1zm1 3zm2-2zm2 2zm4-6zm2 0zm5 1zm6 1zm6 1zm5-1zm-44 11zm2-2zm4-1zm0 0zm8-1zm2 1zm3-2zm7 2zm6-1zm1 3zm5 0zm1 2zm-57 4zm25 1zm4-1zm3-2zm0 5zm10-1zm7-1zm-33 5zm2 3zm2 0zm19-1zm0 0zm5 0zm86 9zm92 17zm38 0zm19 10zm-291 5zm71 7zm242 5zm-287 19zm-9 11z"/>
<path transform="scale(.5)" stroke-width="5.6" stroke="#aec7e8" d="M728 173zm-13 59zm-53 88zm11 35zm198 11zm-209 11zm1 23zm113 42zm-26 17z"/>
<path transform="scale(.5)" stroke-width="5.6" stroke="#e377c2" d="M626 391zm6-7zm19 2zm-31 19zm3 2zm7 12zm0 0zm-13 9zm10 10zm7 0zm-11 5zm4 2zm8-2zm-5 7z"/>
<path transform="scale(.5)" stroke-width="5.6" stroke="#17becf" d="M675 91zm2 3zm1 4zm6 0zm7 20zm-8 31zm6 11zm6 7zm-29 5zm2 1zm-21 9zm29 1zm8 0zm99-7zm-106 10zm9-1zm118 1zm-118 19zm4-5zm63 7zm-65 4zm94 1zm-111 12zm2 0zm78 2zm111 1zm-169 11zm19-5zm5 1zm-43 12zm17-4zm1 3zm78-2zm-71 7zm150 5zm-165 1zm4 0zm3 1zm-8 8zm122 3zm86-4zm-232 15zm30-2zm5-3zm69 4zm-77 6zm13-1zm-33 6zm28 2zm-15 6zm19 4zm177-2zm-97 21zm50 22zm14-2zm-32 6zm2 5zm-22 1zm57 2zm26 5zm2-4zm-90 11zm34-6zm22 1zm1 8zm12 6zm25-4zm23 0zm-35 6zm89 20zm-8 4zm1 1z"/>
<path transform="scale(.5)" stroke-width="5.6" stroke="#b5bd61" d="M691 338z"/>
<path transform="scale(.5)" stroke-width="5.6" stroke="#ffbb78" d="M681 52zm-2 8zm-4 19zm0 4zm7 4zm-7 4zm-6 6zm3 0zm1 9zm-15 10zm4 1zm6-3zm5 2zm8-3zm-23 13zm5 0zm8 0zm2-4zm0 4zm2-3zm5 3zm-20 9zm3-7zm8 6zm0-2zm4 3zm-22 3zm8-2zm5 3zm2-2zm3 5zm4-1zm0 0zm7-3zm2-2zm-34 15zm10-3zm0-4zm17 3zm11 2zm1-2zm0-2zm2 1zm0 3zm-37 9zm5 0zm7-5zm1 6zm1 0zm2-6zm1 3zm2 3zm7 0zm10-6zm-39 13zm7-2zm1 3zm3-4zm1 2zm1 2zm2-5zm10 4zm2 0zm1-6zm9 6zm4-4zm-44 9zm7-1zm13 3zm1-4zm1 5zm13-3zm-29 6zm2 0zm4 2zm1 0zm2 3zm0 1zm4-5zm4 0zm12 4zm11-6zm-47 15zm13-4zm4-3zm6 4zm4-2zm7 5zm-36 7zm14 0zm5-6zm6 4zm24-1zm-45 11zm13-2zm4-1zm3 1zm12-1zm3-1zm0 2zm3 3zm1 0zm1-5zm-44 12zm23 1zm1-1zm2-5zm17 1zm12 1zm-52 11zm4 1zm18-3zm0 0zm0-1zm9-3zm6 1zm4 2zm-46 5zm14 0zm3 3zm17 3zm-24 6zm14 0zm18-4zm2 4zm-41 5zm6 2zm2-1zm3 5zm1-6zm4 0zm8-1zm0 2zm6-1zm33 3zm-63 7zm5 2zm4 0zm0-3zm2 2zm7 1zm1-5zm17 2zm2-1zm4 4zm6 0zm-48 7zm1-1zm0 0zm2 1zm24-1zm-36 11zm6-3zm0 3zm5 1zm7-5zm5 2zm3-3zm3 2zm2 0zm5 2zm1-3zm10 2zm4-4zm16 2zm83-2zm-146 15zm3-4zm1 0zm1 1zm5-2zm24 0zm6 2zm91-2zm-129 13zm5-2zm2 0zm2 2zm0-7zm5 3zm2-1zm0 1zm6 4zm9-7zm41 0zm-73 8zm1 4zm2 1zm0-4zm3 0zm8 1zm3 1zm11 0zm1 1zm1 0zm6-2zm15 1zm-61 11zm2 1zm7-7zm6 5zm3-3zm1 3zm1 1zm10 1zm4-1zm2-1zm4-5zm0 4zm8-3zm0 5zm13-4zm-57 13zm0-2zm6 2zm13-4zm1-3zm0 1zm1-1zm2 6zm0 0zm12-3zm3-1zm81 2zm-117 8zm2-2zm1 4zm1-2zm2-1zm2 0zm2-3zm9 1zm2-1zm3 3zm1-1zm13 3zm8 0zm18-5zm-71 13zm2-2zm1 0zm0 2zm3-1zm7-3zm2 0zm9 3zm1 3zm9-1zm3-5zm5 2zm10-1zm-46 12zm3 1zm10-7zm1 1zm4 1zm5 3zm2-1zm3-1zm4 0zm6 3zm5-6zm-52 11zm8 3zm4-4zm4 2zm2 1zm3-4zm0 6zm4-4zm6 0zm5 3zm4-6zm-32 12zm5-2zm1 4zm1-3zm4 4zm5-7zm0 3zm9-2zm147 4zm-185 6zm4-3zm1 0zm18 4zm2 1zm3-4zm4-1zm7 7zm148-5zm34 2zm-223 8zm10 0zm4 1zm7 2zm187-6zm3 4zm-213 8zm1 0zm4-4zm1 4zm3-2zm10-2zm33 2zm1 3zm163 0zm17 0zm7-5zm-231 14zm32-4zm8 3zm9-1zm44 2zm-104 5zm3 3zm6-4zm2 1zm1 2zm4-5zm18 4zm7 0zm10-5zm98 4zm154-2zm-286 10zm4-1zm1 2zm7-2zm21-2zm289 3zm-298 19zm-43 2zm5 1zm11 2zm1 2zm122 2zm-125 23zm290 23z"/>
<path transform="scale(.5)" stroke-width="5.6" stroke="#1f77b4" d="M897 366zm-36 5zm78 26zm9-1z"/>
<path transform="scale(.5)" stroke-width="5.6" stroke="#9467bd" d="M675 294zm2-1zm2 8zm9 1zm-8 10zm6 7zm11-4zm-15 12zm13-1zm71-6zm-95 8zm4 5zm10 7zm1-3zm129 13zm4 6zm2 2zm-22 4zm21-1zm8 1zm7 4zm39 1zm-10 1zm36 3zm-81 11zm26-2zm37-1zm-1 9zm-33 5zm37 2zm25-3zm70 22zm-272 49z"/>
<path transform="scale(.5)" stroke-width="5.6" stroke="#d62728" d="M777 196zm-81 51zm-30 17zm23 5zm-19 7zm0 23zm227 10zm-42 10zm-32 7zm-7 9zm5-7zm29 1zm-80 10zm36 3zm10-4zm19-2zm-176 10zm189-1zm3-1zm2 5zm3-4zm9 4zm17 0zm6-5zm16 7zm-152 7zm44-5zm4 3zm19-4zm11 4zm1-2zm2 5zm6-5zm24-2zm12 3zm1-3zm0 4zm2 1zm0-5zm9 5zm9 1zm0-1zm6 2zm12-7zm3 7zm8-1zm3 1zm8-7zm-205 9zm11 0zm4 3zm26 3zm28 0zm6-3zm6-4zm6 7zm4-5zm0 5zm1-4zm19-1zm7 5zm3-4zm2 2zm0 2zm9-6zm7 2zm4 0zm4 3zm8 1zm10-7zm4 6zm4-4zm4 0zm0-2zm1 3zm6 0zm8 2zm1-1zm2 1zm15-3zm10 1zm-199 7zm30 5zm4-3zm59 2zm8-5zm1 3zm6-4zm2 6zm25-5zm3 1zm0 5zm2-5zm1-2zm1 6zm0-1zm4 2zm0-5zm12 0zm2 5zm12-1zm2 1zm3-5zm19-1zm24 2zm5 0zm20-3zm-378 14zm43-3zm7-3zm135 7zm12 0zm0-6zm20 1zm1 5zm18-6zm2 6zm7-6zm2 3zm14-2zm5-1zm4 6zm10-3zm1-4zm1 2zm9-2zm4 3zm2-1zm2 4zm1-2zm4-2zm2 3zm2-2zm0-2zm3 5zm3-3zm7-1zm4 2zm2-4zm0 3zm8 2zm3-2zm2 3zm7 1zm7-1zm1 0zm4 0zm-326 3zm95 5zm68 1zm27-7zm9 1zm3 4zm11-5zm16 0zm11 5zm2 2zm2-4zm11 4zm7 0zm0-7zm1 6zm10-1zm4 2zm1-4zm2 3zm0 0zm4-4zm1 4zm0-5zm2 6zm0-7zm0 2zm2-1zm1 3zm1 0zm3 2zm1-5zm5 5zm5-2zm2-2zm4 5zm1-7zm1 2zm1-1zm1 3zm0-1zm3-2zm8 2zm14-2zm-276 14zm12-4zm72-1zm46-1zm6 6zm3-3zm17-2zm3-1zm3 5zm12-6zm10 3zm11-2zm3 0zm2-1zm5 2zm1 3zm7-3zm1 3zm11-5zm0 1zm0 5zm3-1zm0-1zm1 2zm0-4zm1 2zm2-3zm1 5zm0-4zm2 1zm0 4zm1 0zm0 0zm0-2zm1-4zm2 2zm1 4zm0-4zm2-2zm0 4zm1-4zm0 5zm2-3zm1-1zm0 4zm1-2zm3-2zm0 5zm3 0zm1-1zm4-2zm1-1zm1 1zm0 1zm2 1zm0-6zm1 7zm0-1zm7 1zm2-4zm1 3zm9 1zm1 0zm1-5zm3 4zm20-5zm-220 7zm40 7zm13-4zm5 0zm27-3zm9 0zm27 4zm18 0zm1-3zm1 4zm4-3zm1 1zm1-3zm2 1zm0 5zm1-2zm2 2zm1-1zm4-3zm0-1zm0-1zm3 2zm0 5zm5-6zm0 3zm0 2zm1-1zm3-3zm1 0zm1 5zm0-4zm0 1zm1 2zm0 1zm0-7zm0 6zm2-4zm1 5zm0-1zm0-6zm0 7zm3-5zm0 3zm1 0zm6 2zm1 0zm1-6zm5 3zm1 3zm5-5zm0 5zm2-1zm5-2zm13 1zm-402 6zm216-3zm14 2zm21-1zm15 5zm17-5zm13-1zm0 1zm26 1zm3-2zm2 4zm7 0zm4 2zm1 1zm2-1zm1-2zm1-4zm1 7zm4-7zm0 5zm0-2zm1-1zm1-1zm1 0zm4 4zm1-3zm0 3zm0-1zm1-1zm1 2zm1-5zm1 0zm1 1zm0 6zm1-3zm3 1zm1-1zm1-1zm2 0zm0 4zm1-6zm1 2zm2 2zm5-1zm0-4zm1 2zm2-2zm1 1zm1-1zm2 3zm1 1zm0 3zm2-4zm4 3zm5-4zm-377 12zm189-3zm69-1zm42 0zm1 0zm13 2zm5 0zm4 3zm3-2zm0 2zm4-6zm1 4zm2-3zm2-1zm5 1zm1-2zm1 1zm0 4zm1-5zm0 5zm1-3zm3 4zm0-3zm0-2zm2-1zm3 4zm0 1zm2 2zm2-3zm0-2zm1-1zm9 6zm0-3zm2 0zm-123 6zm45 2zm18 0zm3-4zm2 1zm15 6zm8-7zm5 2zm2-1zm0 4zm2-2zm1-3zm3 5zm4-2zm2-2zm0 1zm4 4zm4-5zm0-1zm3 3zm1 1zm7 0zm-273 11zm33-4zm91 4zm85-6zm34-1zm18 5zm8 0zm-302 5zm258-1zm22 1zm19 1zm18-3zm-91 8zm-219 16zm122 7zm-22 7zm141 9z"/>
<path transform="scale(.5)" stroke-width="5.6" stroke="#ff7f0e" d="M710 189zm-20 68zm13 0zm4 6zm2-2zm-13 6zm3 3zm1-2zm4 3zm0 5zm0-4zm54 90zm-58 84zm25 1z"/>
<path transform="scale(.5)" stroke-width="5.6" stroke="#8c564b" d="M664 274zm15 13zm-32 5zm8 3zm26-1zm178-5zm-219 13zm6-1zm13-1zm6-1zm35 4zm-41 7zm4-5zm32 2zm3-1zm-43 9zm3-3zm2 1zm2 0zm5 2zm14-1zm1-1zm3 4zm0-2zm-48 6zm14-1zm3 5zm12-2zm24 4zm-58 4zm6 2zm7 2zm34-7zm1 3zm2-2zm-51 9zm14 2zm0-2zm8 5zm3-5zm26 4zm8-1zm-62 9zm1 1zm1-3zm19-3zm12 3zm22-2zm-47 13zm6-6zm5 1zm13 3zm157-5zm-194 15zm9-2zm9-1zm1-4zm2 3zm4-1zm8 4zm8 1zm149 0zm52-6zm-243 9zm25 2zm2-2zm1 2zm2 3zm2-1zm11-4zm5 5zm3-3zm1-3zm175 6zm-228 8zm8-1zm7-2zm3 0zm5-1zm9 1zm2 0zm6 1zm3-3zm0-2zm4 2zm-43 8zm4 5zm2 0zm1-4zm15-2zm6-1zm1 3zm9 2zm0-5zm3 7zm7-6zm0-1zm-48 13zm2 0zm10 2zm3 0zm6-4zm15 3zm-23 6zm22 1zm5-1zm3 2zm49-3zm34-3zm23 3zm-153 7zm5 1zm11 3zm7-6zm3 4zm9-4zm1 6zm1-2zm-34 5zm5 0zm5-1zm1 2zm1 5zm4-5zm9-1zm4 4zm1-2zm-29 5zm13 0zm0 6zm1-5zm8 0zm4-1zm-29 10zm7 2zm14 0zm4-2zm0 4zm-18 3zm9 1zm7-1zm-19 7zm156 0z"/>
<path transform="scale(.5)" stroke-width="5.6" stroke="#98df8a" d="M740 310zm22 32zm5 9zm87 17zm22 11z"/>
<path transform="scale(.5)" stroke-width="5.6" stroke="#b5bd61" d="M647 308zm-8 7zm39 10zm4 7zm-39 16zm196 1zm-199 16zm219 5zm-202 12zm-37 10z"/>
<path transform="scale(.5)" stroke-width="5.6" stroke="#d62728" d="M796 238zm-153 4zm25 10zm4 34zm-15 27zm16 8zm7 3zm179 0zm-106 11zm39-2zm13-4zm0 3zm43-2zm-80 8zm43 2zm8 2zm8-4zm11 1zm-78 12zm16-4zm13 0zm31 0zm23 3zm0-5zm35 2zm14-2zm2 3zm17-1zm2-3zm-182 13zm39-1zm36-2zm9 4zm19-2zm5-2zm33-1zm5 1zm-83 11zm3 0zm3-1zm6-3zm2 3zm5 2zm4-3zm6-3zm12 6zm12-2zm6 3zm1-6zm13 5zm12-1zm25 1zm7 0zm9-3zm-269 6zm155 1zm3 5zm15-6zm2 1zm11 4zm22-5zm6 4zm3-3zm0 4zm15-6zm12 1zm18 2zm2 0zm1 0zm0-3zm7 5zm4-4zm7 1zm15 1zm20 4zm-174 6zm11-4zm6 5zm7-4zm1 5zm35-6zm10 0zm18 4zm25-2zm3 0zm5 2zm4-4zm2 0zm1 4zm4-4zm0 4zm15-2zm4 1zm1 2zm9-2zm2 3zm0-3zm17 1zm-206 6zm3 3zm27-3zm39 3zm26-6zm3 7zm2-3zm0-1zm4-3zm17 0zm10 0zm1 1zm2 3zm3-3zm13 6zm1-3zm4 3zm2-5zm0-1zm1 1zm2 3zm3 2zm0-6zm2 4zm4 0zm4 1zm3 1zm3-2zm1-3zm3-2zm1 0zm0 0zm0 5zm3-3zm0 4zm1 0zm3-5zm1 6zm7-2zm1 1zm5-6zm0 2zm1 5zm5 0zm14-3zm-147 9zm23-1zm5-2zm7 2zm4-1zm3 2zm3 0zm7-3zm11 5zm5-3zm0-1zm4 0zm3-2zm14 3zm2 0zm3-4zm2 0zm0 5zm1-4zm1 3zm0 1zm3-2zm2 4zm0 0zm1 0zm1-5zm2 0zm0 0zm3-2zm1 3zm2 3zm3 1zm1-1zm1 0zm0-1zm1 0zm0 1zm4-3zm1-2zm5 6zm0-4zm0 1zm8 0zm1 1zm7 2zm3-4zm1 4zm41 0zm-295 3zm50 3zm53 1zm23-4zm15 3zm16 0zm6-2zm6-1zm15 3zm1 1zm1-6zm2 4zm0-2zm1 0zm7 4zm0 1zm0-4zm7 3zm1-3zm0-2zm1 5zm4-2zm7-2zm0-2zm0 4zm1-4zm4 0zm0 2zm0 4zm0-3zm3-2zm1 6zm0-6zm1 2zm2 1zm0-1zm1 3zm0-4zm0 3zm2-3zm2-1zm1-1zm2 3zm2-3zm2 3zm1 2zm1 0zm3 0zm0 0zm6-3zm5 2zm9-4zm6 1zm-134 8zm7-1zm2 0zm26 6zm22 1zm8-7zm2 5zm1-1zm1 0zm4 0zm2 0zm0-3zm2-1zm0 7zm0-7zm1 5zm0 0zm1-5zm2 0zm1 3zm2-1zm2-2zm0 4zm2-3zm0-1zm1 0zm0 6zm2-6zm1 2zm2 2zm0 1zm1-2zm0 1zm2-4zm0 1zm1 3zm0 0zm1-3zm1 5zm1 0zm5-2zm1-3zm3 6zm0-1zm1 0zm0-4zm3 3zm0-1zm0 1zm6-1zm2-2zm6 2zm1 3zm12-4zm-138 5zm41 2zm10 0zm5 0zm3 0zm5 0zm4-2zm1 4zm1-3zm7 5zm1-3zm0 0zm1 2zm4-2zm0 0zm1-3zm2 5zm0-2zm3 2zm3-2zm4-2zm1 0zm0 3zm1-4zm0 0zm0 4zm1 2zm1-3zm0 3zm0-1zm4-5zm2 0zm0 5zm1-3zm1 1zm0 2zm3-3zm0 5zm0 0zm2-3zm1 1zm0 2zm2 0zm0-2zm1-5zm1 5zm0-2zm1 4zm0-6zm5 4zm9 1zm2-2zm-256 4zm186 7zm14-3zm9-4zm10 4zm3-2zm2 5zm0-3zm1 2zm4-6zm1 5zm1 1zm0-5zm1 0zm3 4zm3 1zm2 0zm1-3zm5 1zm2 1zm1 2zm3-6zm8-1zm-43 15zm2-3zm4-3zm1 2zm5 2zm19-4zm9 4zm-284 10zm280-3zm-307 16zm243 1zm-217 7zm97 6zm55 7zm-119 8z"/>
<path transform="scale(.5)" stroke-width="5.6" stroke="#279e68" d="M680 91zm-4 9zm3-1zm-13 10zm3 2zm4 0zm10 0zm1-4zm-18 12zm22 0zm1 0zm-35 8zm26-2zm-13 5zm2 5zm7-3zm7 2zm2-3zm-18 7zm18-1zm-18 13zm4 0zm2-3zm8-1zm-17 6zm14 7zm13 2zm-17 14zm5-4zm3-2zm0 1zm1 3zm7-2zm1 1zm-23 4zm7 4zm6 1zm8 0zm-12 4zm16 5zm-21 7zm5 0zm4-4zm2 3zm8 3zm-25 5zm13 1zm2-3zm7 5zm3-1zm4-3zm-21 11zm14-6zm3 5zm4-5zm-24 9zm9 2zm15 0zm2-3zm-34 8zm1 4zm15 0zm9 3zm78-7zm-105 15zm10 0zm9-3zm0-1zm4-1zm2 1zm1 2zm1 2zm12-4zm-28 7zm1 2zm5 2zm0 1zm6-1zm1-5zm2 5zm11-5zm-53 13zm17-5zm1 5zm2-4zm13 0zm0 5zm1-7zm22 3zm-36 7zm19-2zm2 6zm1-3zm6-3zm1 0zm2 7zm1-4zm0-3zm2 3zm2-2zm-34 14zm3 0zm2-7zm2 6zm5-6zm6 2zm2 4zm0-6zm15 1zm-45 7zm12 0zm2 7zm2 0zm5-3zm5 2zm17 0zm-30 9zm5 0zm6-1zm10-1zm0-5zm9 2zm-38 10zm16-1zm13 1zm2-4zm3 2zm8-1zm-48 13zm2-1zm8-4zm2 6zm4-4zm5 3zm1-5zm2 0zm2 6zm8-5zm3 1zm0 1zm-40 4zm21 1zm0-1zm7 1zm1 0zm3 0zm5 0zm1 2zm0 3zm210 1zm-248 3zm1-2zm9 2zm1-2zm6 1zm3 1zm0 5zm1-6zm11 5zm7-5zm2 3zm2-3zm6 1zm9-2zm-52 12zm11-3zm5 2zm4 2zm0-1zm3 0zm1-4zm6 3zm0 0zm2-1zm-37 10zm8-3zm9 0zm6-1zm1 2zm5 5zm2-3zm4-3zm25 1zm-58 9zm6 0zm0-2zm15 5zm5-3zm3 4zm8-4zm60 1zm-126 7zm30-2zm5 2zm2 1zm2-4zm12 3zm1-3zm0 4zm199 2zm-41 11zm-37 9zm36 16zm15 1zm90 11zm-246 18zm-77 9z"/>
<path transform="scale(.5)" stroke-width="5.6" stroke="#98df8a" d="M749 275zm54 73zm26 7zm55-3zm-56 12zm-59 15z"/>
<path transform="scale(.5)" stroke-width="5.6" stroke="#9467bd" d="M678 287zm1 24zm7-6zm1 1zm3 1zm-10 8zm6-2zm-8 12zm16-5zm9 5zm-7 6zm-9 8zm11-2zm76 14zm65 0zm37-4zm-77 7zm58 1zm1 12zm15 0zm-167 8zm106-3zm70 2zm1-6zm-21 9zm22-1zm30 4zm15 25zm-231 53z"/>
<path transform="scale(.5)" stroke-width="5.6" stroke="#8c564b" d="M656 274zm39 13zm-57 8zm-2 5zm5-4zm12 5zm40-1zm1 0zm-54 7zm12 4zm11-2zm12 1zm9-1zm-40 8zm9 1zm7-4zm26 5zm-40 4zm38-1zm-47 13zm5-4zm6 4zm3-5zm4 4zm6-4zm3-2zm20 0zm-42 9zm10 1zm21 5zm3-2zm0-2zm2-3zm6 5zm3-3zm-54 12zm6 1zm5-3zm3 3zm8-7zm2 4zm5-2zm3-1zm1 0zm2 6zm20-5zm99 5zm-142 1zm5 2zm6 0zm8 2zm9 0zm-54 11zm3 0zm8-1zm8-6zm1 4zm3-3zm19 6zm2-3zm10-2zm2 0zm6-1zm158 1zm-201 12zm1-5zm4-1zm10 4zm1-2zm3 2zm10-3zm11 3zm-59 8zm6 2zm4-2zm0-4zm1 0zm0 7zm3 0zm4-2zm6 1zm2-5zm3 5zm2-6zm1 3zm1-2zm4 1zm1 5zm1-5zm2 5zm4-4zm2-1zm0 5zm4-4zm2-2zm1 4zm4-2zm-58 11zm3-1zm2-5zm0 6zm3-5zm11-1zm5 7zm5-1zm2-4zm10-1zm10 1zm0 2zm-54 8zm2-4zm0 3zm4-2zm5-1zm14 2zm5 2zm4 2zm3-5zm10 6zm3-4zm2 2zm4 0zm-53 7zm5-4zm8 4zm0-1zm2 2zm7 0zm9 0zm9-5zm3 5zm0-4zm98-1zm-145 11zm7 2zm8 0zm6-3zm2 1zm12-1zm1 1zm6 3zm39-1zm-71 9zm4-2zm4-2zm1 1zm2 0zm10-3zm4 1zm-23 8zm3 2zm2 4zm-14 2zm2-1zm2 1zm1 4zm1-4zm1 2zm2 0zm0 0zm8 2zm7 2zm2-4zm-20 12zm12 1zm333 15zm-293 5zm251-1zm8 10z"/>
<path transform="scale(.5)" stroke-width="5.6" stroke="#17becf" d="M682 80zm1 26zm-3 15zm0 2zm-5 9zm28 15zm-21 8zm2 4zm2 6zm1-5zm-3 23zm-1 2zm10 6zm38-5zm-36 7zm47 4zm-57 14zm7 12zm4 4zm3 4zm-44 2zm20 5zm7-1zm4-3zm16 1zm-16 5zm227 5zm-253 10zm20 0zm15-2zm-15 8zm0 10zm0-1zm9 1zm1-1zm3 1zm3-7zm9 7zm-8 16zm-25 7zm11 0zm4-6zm24 1zm-14 10zm1 2zm-31 3zm102 14zm38 38zm15-4zm13 16zm91 7zm-47 3zm92 35z"/>
<path transform="scale(.5)" stroke-width="5.6" stroke="#ffbb78" d="M682 79zm-11 7zm7 0zm4-2zm0 1zm1 0zm-21 12zm5 3zm5-2zm2 0zm3 4zm-15 2zm2 2zm2 2zm6 3zm3-5zm1 4zm8-5zm-7 14zm-5 4zm2 0zm0 2zm4-3zm10-1zm-28 7zm11 5zm6 2zm1-6zm-18 8zm2 5zm15-4zm1-1zm4 6zm0-7zm-31 12zm13 2zm1-1zm11-2zm9-2zm-31 14zm1-4zm19-1zm-21 12zm6-1zm0-4zm4 4zm2-2zm1 4zm0-1zm1-5zm6 5zm6 0zm3-1zm10-1zm-45 9zm1-4zm4 4zm4-5zm1 2zm22 0zm2-2zm-30 12zm1 1zm25-2zm3 2zm11 0zm3-2zm-45 12zm2-2zm0-5zm9 0zm4 7zm0-6zm8 0zm0 3zm7 2zm31-6zm96 2zm-149 10zm5 3zm1-4zm5-1zm9 5zm16-6zm2 1zm-46 7zm0 0zm2 1zm1 1zm2 4zm0-2zm2 1zm3-1zm0-1zm9 3zm2-6zm8 6zm8-7zm40 4zm-81 5zm4 0zm1-1zm2 3zm0 2zm8 0zm4-3zm5 4zm4-6zm2 7zm3-6zm12 3zm-48 7zm5 1zm3-3zm7-1zm1 2zm4-1zm6 4zm0-4zm1 0zm23 6zm-51 2zm9 0zm16-1zm0 7zm14-3zm0 3zm6-1zm-43 2zm1 0zm4 0zm0 3zm28-2zm3-1zm1 4zm9 0zm0 0zm35-3zm-74 9zm6-2zm8 7zm5 0zm3-4zm0 3zm9 0zm8-4zm-47 12zm3-1zm1-5zm12 2zm5-2zm13 1zm0-1zm9 4zm3 2zm-45 8zm1 0zm0-2zm3-3zm3 0zm1-1zm2 2zm8 2zm4 3zm22-6zm110 1zm-156 8zm5 1zm5 1zm1 1zm1 0zm2 0zm1-2zm0-3zm17 6zm8-1zm16-3zm58 1zm-117 12zm12-4zm5 4zm1-2zm1-2zm11 4zm3-6zm2 2zm2 2zm4 2zm4-7zm4 6zm1-1zm3-3zm5-1zm-58 13zm3-4zm7-1zm8 4zm5-1zm2 3zm1-7zm7 2zm1-1zm4 4zm16-4zm198 0zm-247 11zm16-4zm7 3zm2 1zm3-2zm5 1zm-44 10zm7-1zm7-2zm11-1zm7 0zm8 3zm20-2zm231 0zm-270 6zm0 3zm6 0zm5 1zm6 2zm6-5zm2 6zm12-5zm45 5zm-86 2zm2 1zm8-1zm5 1zm9 0zm-44 13zm2 0zm8-6zm5-1zm3 7zm5-6zm3-1zm3 7zm6-6zm2 3zm23-2zm-61 11zm1-1zm7 2zm8-2zm6-1zm4 1zm6 0zm1-4zm11 7zm1-4zm2-1zm1 2zm-47 11zm0-4zm3 1zm6-4zm6 0zm6 1zm0 2zm1 4zm2-7zm3 1zm1 2zm7 0zm3 1zm153 0zm-194 6zm1 1zm11-1zm6 0zm3 3zm7-2zm2-3zm4 0zm5 6zm174 1zm39 0zm-247 6zm1 1zm1-1zm0 0zm1-3zm6 3zm28-3zm123 5zm27-3zm-195 9zm7-1zm11-1zm2 2zm3-3zm0-1zm11 5zm13-4zm187 1zm-236 7zm4 4zm3 0zm6-5zm10 1zm1 0zm15-1zm1 2zm3-2zm6 1zm190-1zm29 2zm-261 8zm3 2zm2 0zm5 1zm12-4zm4 0zm7 1zm12-2zm2 6zm200-3zm-253 11zm6-5zm14 1zm65 4zm80-7zm62 0zm-213 15zm13-1zm5 1zm-35 8zm1-4zm15 2zm1-2zm-20 7zm20 4zm5-2zm0-2zm2 4zm4 1zm3-6zm38-1zm268 0zm-335 28zm15-4zm6 3zm131 0zm-152 11zm170 1zm-164 1zm101 14z"/>
<path transform="scale(.5)" stroke-width="5.6" stroke="#aec7e8" d="M817 360zm-204 25zm5 10zm137 49z"/>
<path transform="scale(.5)" stroke-width="5.6" stroke="#e377c2" d="M632 353zm155 1zm27 14zm-189 8zm41 1zm-35 30zm-8 5zm-6 8zm9-4zm-5 10zm6-1zm8 0zm-13 13z"/>
<path transform="scale(.5)" stroke-width="5.6" stroke="#1f77b4" d="M798 352zm31 11zm-12 12zm68-3zm18 9zm36 12zm-237 22z"/>
<path transform="scale(.5)" stroke-width="5.6" stroke="#ff7f0e" d="M688 248zm9 1zm0 13zm1-4zm1 1zm-6 11zm6-2zm3-3zm1 0zm0 4zm3-4zm-6 7zm4 0zm20 0zm-11 106zm-21 12zm30 11zm-41 18zm78 32z"/>
<path transform="scale(.5)" stroke-width="5.6" stroke="#ff7f0e" d="M696 260zm2-4zm2 4zm0 1zm-2 10zm2-2zm3-4zm2 0zm0 2zm-9 11zm10-3zm-3 6zm11 3zm80 134zm-108 42z"/>
<path transform="scale(.5)" stroke-width="5.6" stroke="#8c564b" d="M736 245zm-74 34zm15 2zm-37 7zm19 0zm43 1zm-49 14zm13-2zm1 1zm13-6zm5 2zm-44 7zm9-1zm3 4zm10 0zm14 3zm12 0zm-33 3zm5 0zm27 2zm-55 9zm9-3zm20-2zm23 2zm7 3zm-58 9zm1-3zm12 3zm4 0zm3-1zm14-2zm0 1zm8 0zm11 2zm-56 8zm0-4zm16 4zm1-4zm8-1zm2 1zm9 2zm4-3zm3 3zm2-1zm105 2zm-158 9zm0-3zm18 4zm6-5zm8 0zm1-2zm4 6zm1-1zm2 0zm2-3zm13-2zm5 1zm0 4zm154-5zm-197 12zm1-3zm2 0zm13 2zm0 2zm189 2zm-225 5zm3-4zm6 2zm5-2zm13 7zm2 0zm3-7zm5 6zm3-5zm3 3zm4 3zm8-2zm1-1zm180 0zm-235 5zm1 6zm8-5zm5 3zm8-2zm20-2zm0 6zm3-3zm7 3zm-56 5zm8-2zm27 3zm0-5zm3 5zm10 1zm1 1zm0-6zm1 6zm6-2zm5-1zm-59 8zm3-2zm4 3zm1-4zm3 2zm4 2zm3-5zm2 7zm3-1zm9-3zm4-3zm3 4zm3 1zm-44 4zm7 5zm1-5zm4 0zm2 4zm0-2zm9 4zm9-2zm5-4zm1 2zm7 4zm1-1zm2 0zm4-5zm-45 10zm2-1zm8-2zm6 7zm0-4zm2 2zm7-3zm10 2zm1-4zm1 0zm5 4zm-36 8zm6 3zm0 0zm9-4zm6 3zm3 0zm4-1zm-30 6zm2 4zm2-6zm7-1zm0 4zm3-4zm0 4zm11 0zm3 2zm-39 2zm9 7zm1-4zm2 4zm0-7zm6 1zm2 4zm3-1zm1 1zm6-2zm3 0zm0 2zm2-4zm-31 9zm4 4zm8-1zm3-4zm4 1zm5 2zm2 3zm-23 6zm1-4zm0 6zm4-6zm2 2zm0 1zm117-3zm183 4zm-31 10zm-144 3zm202 15zm-21 17z"/>
<path transform="scale(.5)" stroke-width="5.6" stroke="#17becf" d="M679 77zm7 25zm-7 6zm3 10zm-24 12zm32 4zm-19 6zm11 13zm34 5zm-41 2zm34 5zm48 2zm27 8zm-106 7zm14-1zm30-4zm-42 9zm7 8zm157 2zm11 0zm-211 7zm40 4zm-35 5zm17 3zm19-3zm-11 10zm9 1zm2-3zm8 7zm-14 12zm78-1zm3-4zm-54 11zm-40 6zm35 1zm-15 9zm11-4zm56 0zm46 4zm20-5zm5 2zm-53 8zm-92 8zm25 0zm-22 13zm16-4zm-3 6zm70 2zm-77 6zm122 38zm37 8zm4-2zm-57 7zm43 3zm26 0zm-41 5zm9 5zm62 21zm52 15zm18 1z"/>
<path transform="scale(.5)" stroke-width="5.6" stroke="#98df8a" d="M724 292zm-11 42zm153 8zm-91 19zm60-1zm-5 14zm29-6zm-63 20z"/>
<path transform="scale(.5)" stroke-width="5.6" stroke="#d62728" d="M747 173zm-69 95zm2 12zm197 30zm-245 7zm133 9zm21-2zm14 1zm5-5zm66 4zm-193 10zm59 0zm56-3zm36 4zm-37 7zm5-5zm11-1zm1 7zm11-6zm16 5zm8-6zm36 0zm-143 11zm43 0zm49 0zm37 4zm3-6zm3 6zm8-6zm20 2zm73-1zm-193 11zm24-5zm11 1zm1 6zm26 0zm5-3zm1 1zm3-5zm5 6zm11 0zm9-1zm4 2zm15-2zm28 1zm-165 2zm3 7zm19-1zm5-6zm10 2zm12-2zm12 3zm12-2zm22 2zm7 3zm4-1zm3-1zm0 2zm7 1zm3-1zm5-3zm6 2zm0 2zm4 0zm5 0zm3-4zm9 3zm3 1zm26-2zm13 0zm52 0zm-223 5zm8 5zm8-5zm9-2zm3 2zm14 2zm0-1zm23-3zm5 0zm20 4zm6-3zm4 1zm1 3zm6 1zm1 1zm3-3zm1 2zm18-1zm5 2zm5-2zm2-3zm1 5zm5-4zm4-1zm0 5zm6-2zm4-3zm3 5zm15-4zm-153 8zm23 2zm5-1zm10-3zm13 4zm4-1zm2-1zm1 4zm5-6zm16 4zm12-3zm0-2zm10 3zm1-1zm6 1zm0-1zm1 2zm8 0zm1 0zm3 2zm1-4zm3 2zm1 3zm1-6zm1 3zm10 1zm4 0zm5 2zm0-7zm6 1zm4 4zm3 0zm12-3zm5-1zm-179 11zm6-4zm24 5zm14-5zm2 2zm7 0zm2 5zm16-2zm9 2zm19-4zm3 3zm1 0zm1-2zm4 2zm1-2zm2-3zm1 5zm7-6zm2 0zm1 2zm4 4zm9-4zm1 5zm0-4zm1-1zm0 1zm1 4zm1-4zm2-3zm1 6zm1-3zm0-2zm1 3zm1-3zm4 4zm1 1zm1-5zm0 5zm4-3zm2 4zm2-2zm2 1zm1-5zm3 1zm3-1zm8 4zm6 0zm5-2zm4 2zm-231 5zm44 3zm9-5zm29 5zm1 1zm9 1zm2-6zm21 1zm14 0zm1 5zm18-7zm1 7zm3 0zm9-4zm2-2zm2 3zm0 0zm0-3zm1 4zm3-5zm0 4zm0 0zm5-2zm1 4zm1-4zm3 0zm0 3zm2-5zm1 1zm3 6zm0 0zm1-4zm1 2zm0-5zm1 1zm2 5zm1 1zm2 0zm0-2zm1 2zm2-6zm3-1zm0 2zm1 4zm0-2zm0-1zm1 0zm0 4zm0 0zm1-2zm0-2zm0 3zm0 1zm2-3zm0-1zm0 2zm0-3zm1 0zm3 4zm0 0zm2-1zm2 2zm1 0zm0-5zm2-1zm1 5zm0-1zm1-2zm2 0zm-201 12zm80-3zm0-4zm19 3zm5-3zm16 3zm28 3zm0-1zm12-2zm3 1zm2-3zm0 6zm1-4zm1 4zm0 0zm2 0zm1-3zm1-3zm1 5zm1-2zm3 1zm0-2zm1 1zm1-3zm0-1zm0 5zm0-1zm1 1zm2 1zm0-2zm2 2zm1 1zm0-7zm1 2zm1-1zm1 6zm0-3zm1 1zm0-5zm0 4zm0 1zm2-2zm1 3zm2-1zm1-3zm3 2zm1-1zm0 4zm2-7zm6 5zm1 1zm0 0zm2-1zm3 2zm1-4zm3 2zm0-5zm1 1zm3 2zm-299 9zm150 0zm21-1zm5-2zm31 4zm29 0zm1-3zm2-2zm2 6zm5-4zm1-1zm1 1zm1 1zm1-2zm0 0zm6 0zm3 6zm0-7zm0 1zm2 5zm0 0zm2-3zm0-2zm1 5zm1-2zm2 0zm2-2zm0 0zm0-1zm1 5zm1-6zm0 1zm1 1zm0 3zm0 1zm2-2zm3 0zm0 3zm2-3zm0 2zm1 0zm0-6zm1 2zm0 4zm1-6zm0 6zm1-2zm1-2zm1 2zm1 1zm3 1zm1-6zm5 6zm2-6zm4 0zm1 4zm-118 5zm65 2zm1-1zm1-2zm4 1zm3 2zm2-1zm1-1zm1 1zm1-1zm4 4zm2-3zm1 2zm0 3zm2-2zm1-1zm4-1zm0-1zm1 1zm4-3zm1 3zm2-3zm2 0zm2 2zm2 5zm0-5zm2-1zm6-1zm3 3zm2 2zm1-1zm3 1zm-274 5zm152 2zm22-3zm40 1zm2 2zm4-3zm8 0zm2 0zm0 0zm12 6zm1-7zm8 1zm0 6zm4 0zm0-6zm3 2zm4-3zm3 1zm1 3zm0-3zm13 6zm20-6zm-344 8zm239 2zm47-2zm12 6zm9-2zm16 2zm1-6zm-43 9zm-75 8zm-162 9zm290-3zm-129 19zm-64 13zm67 7z"/>
<path transform="scale(.5)" stroke-width="5.6" stroke="#9467bd" d="M787 257zm-110 34zm8 1zm-3 8zm-6 10zm4-3zm0 3zm2 3zm3-1zm1 0zm5 6zm-9 6zm0-2zm3 3zm3 3zm65 7zm63-6zm-124 7zm95 21zm15 0zm19 0zm49 1zm-83 4zm38 4zm23-1zm25-4zm37 5zm-82 5zm86 4zm-160 7zm84-5zm54 3zm-208 81z"/>
<path transform="scale(.5)" stroke-width="5.6" stroke="#ffbb78" d="M681 46zm-8 32zm6-4zm1 12zm1-5zm-5 12zm2-5zm6 7zm-16 5zm4-4zm5 7zm7 0zm-23 1zm6 7zm4-4zm4 4zm0-3zm4 1zm7-4zm0 1zm3 5zm-28 6zm1-1zm4 3zm8-1zm3 0zm1 0zm0 0zm2-3zm3 0zm5 4zm-27 4zm1 1zm1 3zm5 0zm1-5zm2 1zm0 2zm2-2zm2 0zm3-3zm2 0zm1 3zm-25 5zm6 5zm7-3zm18 1zm3 4zm-25 1zm1 5zm2 2zm2-7zm4 1zm7 1zm2 2zm-32 11zm1 0zm1-1zm3-5zm15-1zm3 1zm5 5zm21-4zm61 4zm-94 4zm1 3zm3 0zm17-3zm-33 8zm1 4zm1 1zm5-2zm8 2zm0-7zm3 6zm4-6zm9 7zm-30 1zm1 0zm6 7zm2-4zm2 4zm2-4zm4 4zm4-7zm-24 11zm0 0zm1-1zm11 0zm1-1zm5 1zm1 5zm18-5zm-42 6zm6 1zm17 5zm6-2zm0 1zm4-2zm-35 9zm0 1zm1-3zm7-2zm2 3zm3-1zm1 1zm5 0zm6 1zm7-2zm-14 11zm16 1zm2-1zm-29 4zm11 6zm0-4zm1 3zm1-1zm11-3zm86 0zm-112 13zm4-7zm2 6zm3-4zm6-2zm3 6zm5-6zm4 2zm12 3zm-45 6zm1 2zm10-1zm12-3zm7 2zm2 2zm3 2zm17-3zm-47 8zm6 3zm0-5zm5-1zm5 1zm10 1zm7 4zm2-5zm-45 13zm2-7zm2 1zm5 4zm18-5zm5 6zm7-1zm2 1zm1-3zm-41 9zm8-4zm7 2zm6-2zm3 5zm1-4zm2 3zm23-2zm5 1zm-56 9zm1-4zm4 0zm1 5zm3 1zm20 1zm6 0zm3-7zm6 4zm5 0zm-45 4zm3 3zm11 3zm7-2zm3 2zm1-4zm5-1zm-29 11zm1-1zm4-3zm2 7zm6-7zm3 6zm20-1zm2 1zm6-3zm-49 9zm12-1zm3 4zm2-3zm10-1zm3 3zm2-4zm1-2zm7 7zm4 0zm-49 7zm14 1zm2-3zm38-3zm-55 8zm2 6zm6-7zm6 1zm1 5zm0-1zm12-5zm1 5zm5-4zm8-1zm-39 13zm30 0zm2 2zm3-1zm5-4zm-41 11zm6-2zm3 1zm6 0zm4-4zm1 1zm11 5zm137 0zm-173 8zm1-4zm4 2zm4 2zm2-5zm2 4zm20 2zm6 0zm0-4zm7 0zm1-3zm-51 11zm23-2zm0 0zm6 1zm10-2zm2 7zm2 0zm161 0zm-193 7zm6 0zm1-2zm9-3zm8 4zm9 1zm12-3zm1-3zm15 4zm-70 10zm1-5zm10 3zm7-3zm2-1zm4 1zm4 0zm2 4zm5-5zm41 2zm166 2zm-230 6zm1-1zm7-1zm5 7zm1 0zm3-5zm183 1zm51 2zm4-4zm-258 8zm0 0zm9 6zm2-5zm1 3zm3 2zm8-7zm5 7zm7-1zm185-2zm-225 11zm2-2zm16-2zm6 0zm11-2zm57 3zm109-3zm-199 7zm9 4zm1 1zm13-4zm11 2zm237 0zm-286 5zm3 3zm1 4zm24-2zm5-3zm288-2zm-324 9zm2 3zm8-4zm1 1zm2 3zm19 2zm10-1zm255-4zm-264 9zm2 3zm3 2zm11-4zm262 3zm4-1zm32 0zm-328 6zm314 0zm-329 11zm73-4zm66 2zm-119 6zm346-2zm-354 8zm9 4zm43-2zm51 2zm-94 9zm153 17zm18 1zm12-5zm-160 8z"/>
<path transform="scale(.5)" stroke-width="5.6" stroke="#b5bd61" d="M676 303zm10 15zm12-3zm-22 47zm137-1zm-192 20zm27 9zm4 13z"/>
<path transform="scale(.5)" stroke-width="5.6" stroke="#e377c2" d="M669 315zm263 49zm-262 11zm153 3zm-197 29zm-10 8zm7-2zm-3 4zm5 5zm3 1zm1 8zm1-3zm1 2zm-7 5zm2 7zm3 3zm5-2zm3 8z"/>
<path transform="scale(.5)" stroke-width="5.6" stroke="#aec7e8" d="M701 310zm-4 3zm121 42zm-6 6zm-175 9zm-17 16zm51 3zm-21 19z"/>
<path transform="scale(.5)" stroke-width="5.6" stroke="#279e68" d="M672 88zm3 0zm4 5zm3-4zm3-1zm-20 15zm22-1zm-12 13zm7-1zm6-1zm-19 11zm2 0zm6 0zm6-2zm5 1zm2 3zm-11 2zm7 4zm3 1zm0 0zm-17 3zm3 1zm2 0zm1 6zm4-6zm1 6zm5-7zm-20 10zm10 5zm3-2zm10-1zm-18 7zm2 1zm6 3zm2 0zm-18 8zm19-6zm5 3zm1 2zm3 1zm-11 6zm4 2zm1-7zm8 3zm-25 8zm3-2zm4 2zm6 1zm-17 4zm23 5zm-12 5zm3 4zm3-5zm5 4zm2-2zm-22 5zm6 7zm19-5zm3 2zm-36 11zm12-7zm6 7zm0-6zm3 1zm2 2zm2 1zm-29 10zm20-5zm1 3zm2 0zm4-4zm3 3zm6 3zm1-7zm1 1zm1 4zm2-2zm-24 7zm1 4zm4-1zm1 0zm2-3zm3-1zm3 1zm3 3zm1 1zm2-6zm1 2zm1 0zm-23 9zm2 2zm8-3zm2 3zm2-1zm4 1zm4 2zm-28 8zm3-5zm4 0zm0 5zm1-5zm3 3zm4-3zm1 2zm7-3zm11-1zm32 6zm44 1zm-108 7zm13 0zm3-1zm3-2zm2-2zm2 6zm1-7zm6 4zm-36 11zm9-6zm5 1zm3-1zm1 6zm4-7zm3 4zm1 0zm6-3zm7 3zm-30 7zm4 0zm4-1zm1-1zm3-1zm4 5zm0 2zm6 0zm-25 6zm6 2zm1-3zm8-1zm2-3zm6 1zm0 5zm-31 4zm7-2zm5 7zm11-2zm0-4zm3 1zm7-1zm8 3zm-61 8zm33 1zm2-2zm5 1zm11 2zm7-5zm-31 10zm5-1zm3-1zm6 5zm0-1zm2 0zm13 2zm1-5zm4-2zm-66 11zm29 1zm2-3zm6 3zm2 0zm1-4zm2 0zm1 1zm8 2zm5-1zm5 4zm-40 5zm4 3zm3-5zm18 0zm4 6zm2-4zm4-3zm5 3zm-41 7zm15 2zm13 1zm12-3zm1-1zm-58 9zm14 1zm3 3zm1-2zm1 2zm0-4zm0 0zm2 0zm7 1zm0-3zm0 7zm12-6zm4 0zm4-1zm-42 9zm15 4zm4 1zm0-3zm14 3zm3-2zm148 2zm0 1zm-172 1zm4 7zm10-4zm6-2zm4 3zm189 11zm11-1zm-163 4zm101 3zm-155 3zm41 12zm144-4zm89 11z"/>
</g>
<path d="M298 10.9V256.5H522.2" fill="none" stroke="#777" stroke-width="1.3"/>
<g font-family="'DejaVu Sans','Liberation Sans',sans-serif" font-size="7.9" fill="#222"><text x="410" y="265.8" text-anchor="middle">PC1</text><text transform="translate(294,135.2) rotate(-90)" text-anchor="middle">PC2</text></g>
<g font-size="14.7" font-family="'DejaVu Sans','Liberation Sans',sans-serif" fill="#111"><circle cx="549.2" cy="16.3" r="5.2" fill="#1f77b4"/><text x="576.4" y="20.7">Erythrocyte</text><circle cx="549.2" cy="38.2" r="5.2" fill="#ff7f0e"/><text x="576.4" y="42.6">Fibroblast</text><circle cx="549.2" cy="60.1" r="5.2" fill="#279e68"/><text x="576.4" y="64.5">Glioblast</text><circle cx="549.2" cy="82" r="5.2" fill="#d62728"/><text x="576.4" y="86.4">Immune</text><circle cx="549.2" cy="103.9" r="5.2" fill="#9467bd"/><text x="576.4" y="108.3">Neural crest</text><circle cx="549.2" cy="125.8" r="5.2" fill="#8c564b"/><text x="576.4" y="130.2">Neuroblast</text><circle cx="549.2" cy="147.7" r="5.2" fill="#e377c2"/><text x="576.4" y="152.1">Neuron</text><circle cx="549.2" cy="169.6" r="5.2" fill="#b5bd61"/><text x="576.4" y="174">Neuronal IPC</text><circle cx="549.2" cy="191.5" r="5.2" fill="#17becf"/><text x="576.4" y="195.9">Oligo</text><circle cx="549.2" cy="213.4" r="5.2" fill="#aec7e8"/><text x="576.4" y="217.8">Placodes</text><circle cx="549.2" cy="235.3" r="5.2" fill="#ffbb78"/><text x="576.4" y="239.7">Radial glia</text><circle cx="549.2" cy="257.2" r="5.2" fill="#98df8a"/><text x="576.4" y="261.6">Vascular</text></g>
<g font-family="'Liberation Sans',Arial,sans-serif" font-weight="700" font-size="36.8" fill="#000" stroke="#000" stroke-width="0.7" stroke-linejoin="round"><text x="8.5" y="41.6">A</text><text x="255" y="41.6">B</text><text x="8.6" y="306.6">C</text></g>
<rect x="19.8" y="311.2" width="40" height="689.2" fill="none" stroke="#000" stroke-width="2.2"/>
<text transform="translate(47.3,725.4) rotate(-90)" font-size="30.4" font-family="'Liberation Sans',Arial,sans-serif" font-weight="700" fill="#000" stroke="#000" stroke-width="0.5" stroke-linejoin="round">Microglia</text>
<rect x="19.8" y="1007.7" width="40" height="276.6" fill="none" stroke="#000" stroke-width="2.2"/>
<text transform="translate(47.3,1276.3) rotate(-90)" font-size="30.4" font-family="'Liberation Sans',Arial,sans-serif" font-weight="700" fill="#000" stroke="#000" stroke-width="0.5" stroke-linejoin="round">Neural Stem Cells</text>
<rect x="19.8" y="1290.3" width="40" height="220.5" fill="none" stroke="#000" stroke-width="2.2"/>
<text transform="translate(47.3,1458.5) rotate(-90)" font-size="30.4" font-family="'Liberation Sans',Arial,sans-serif" font-weight="700" fill="#000" stroke="#000" stroke-width="0.5" stroke-linejoin="round">Neurons</text>
<text x="503.6" y="748.1" font-size="35" font-family="'Liberation Sans',Arial,sans-serif" font-weight="700" fill="#000" stroke="#000" stroke-width="0.7" stroke-linejoin="round">A</text>
</svg>
</body></html>
